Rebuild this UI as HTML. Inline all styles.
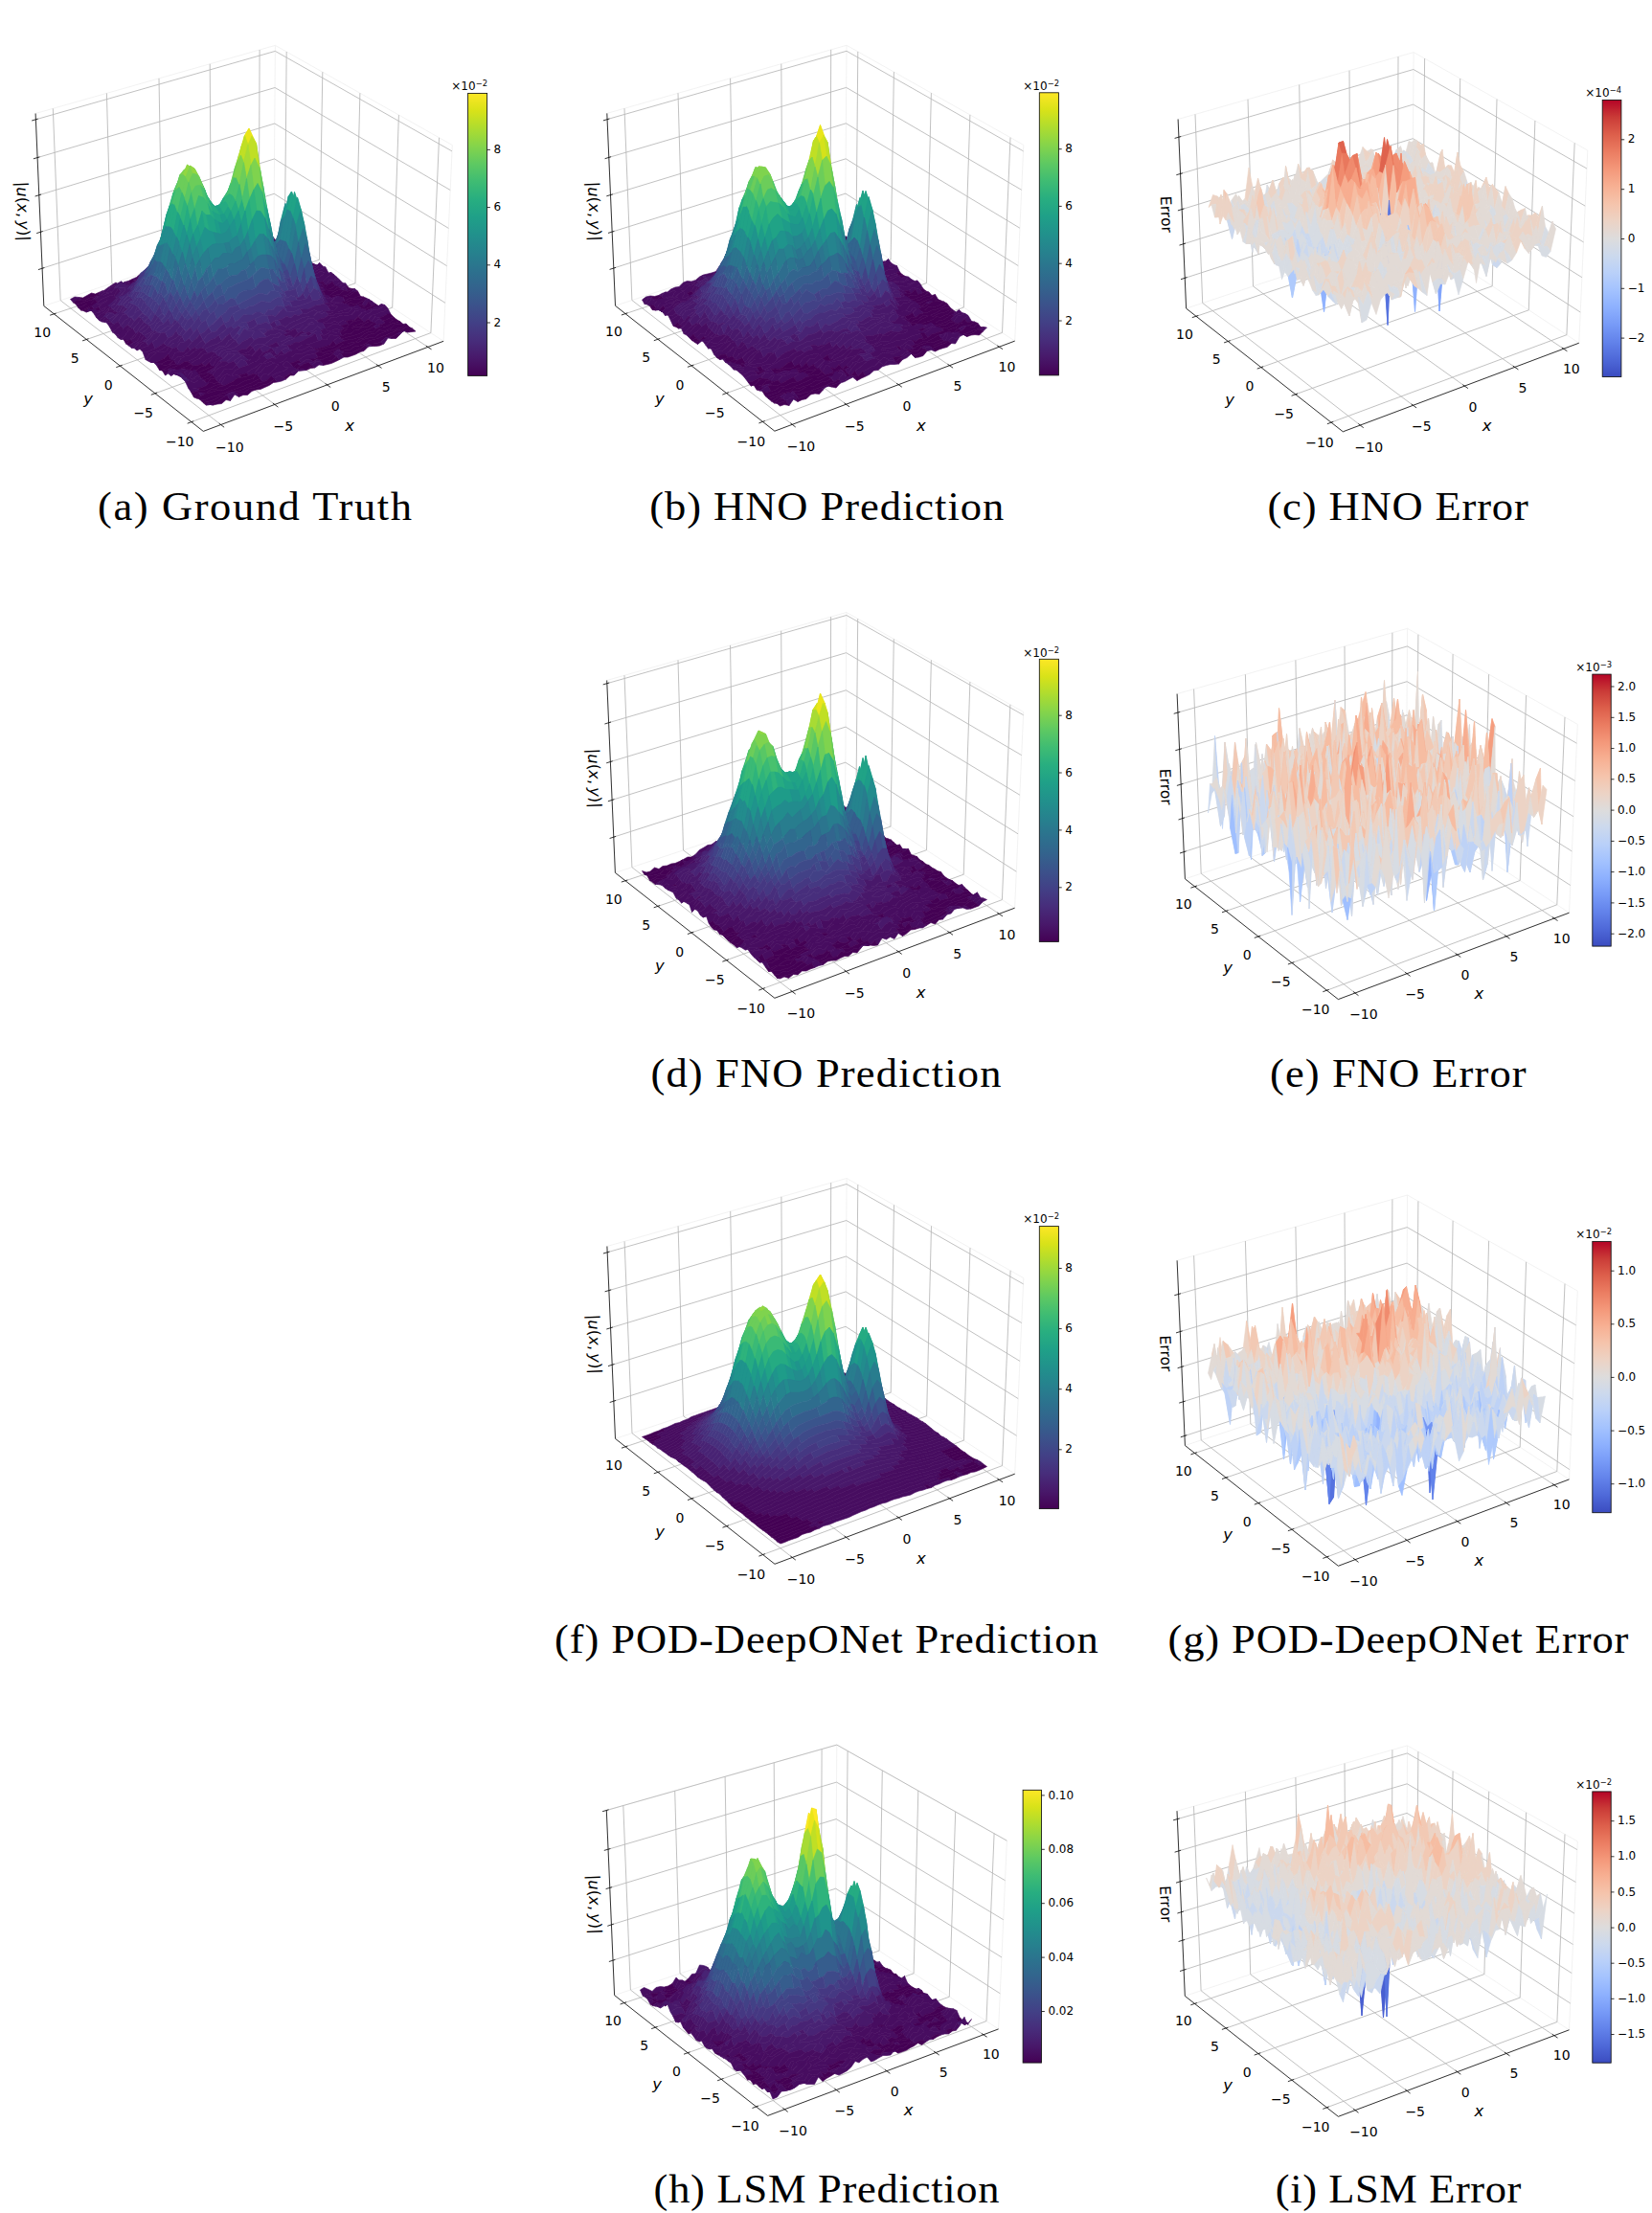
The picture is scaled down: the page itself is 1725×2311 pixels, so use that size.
<!DOCTYPE html><html><head><meta charset="utf-8"><title>Figure</title><style>.v0{fill:#440154;stroke:#440154}.v1{fill:#470d60;stroke:#470d60}.v10{fill:#32658e;stroke:#32658e}.v11{fill:#2e6d8e;stroke:#2e6d8e}.v12{fill:#2b758e;stroke:#2b758e}.v13{fill:#287d8e;stroke:#287d8e}.v14{fill:#25848e;stroke:#25848e}.v15{fill:#228c8d;stroke:#228c8d}.v16{fill:#1f948c;stroke:#1f948c}.v17{fill:#1e9c89;stroke:#1e9c89}.v18{fill:#20a386;stroke:#20a386}.v19{fill:#25ab82;stroke:#25ab82}.v2{fill:#48186a;stroke:#48186a}.v20{fill:#2eb37c;stroke:#2eb37c}.v21{fill:#3aba76;stroke:#3aba76}.v22{fill:#48c16e;stroke:#48c16e}.v23{fill:#58c765;stroke:#58c765}.v24{fill:#6ccd5a;stroke:#6ccd5a}.v25{fill:#7fd34e;stroke:#7fd34e}.v26{fill:#93d741;stroke:#93d741}.v27{fill:#a8db34;stroke:#a8db34}.v28{fill:#c0df25;stroke:#c0df25}.v29{fill:#d5e21a;stroke:#d5e21a}.v3{fill:#482374;stroke:#482374}.v30{fill:#eae51a;stroke:#eae51a}.v31{fill:#fde725;stroke:#fde725}.v4{fill:#472e7c;stroke:#472e7c}.v5{fill:#453882;stroke:#453882}.v6{fill:#424186;stroke:#424186}.v7{fill:#3e4a89;stroke:#3e4a89}.v8{fill:#3a548c;stroke:#3a548c}.v9{fill:#365d8d;stroke:#365d8d}.w1{fill:#485fd1;stroke:#485fd1}.w10{fill:#cbd8ee;stroke:#cbd8ee}.w11{fill:#d7dce3;stroke:#d7dce3}.w12{fill:#e2dad5;stroke:#e2dad5}.w13{fill:#ecd3c5;stroke:#ecd3c5}.w14{fill:#f2c9b4;stroke:#f2c9b4}.w15{fill:#f6bda2;stroke:#f6bda2}.w16{fill:#f7ad90;stroke:#f7ad90}.w17{fill:#f59d7e;stroke:#f59d7e}.w18{fill:#f08b6e;stroke:#f08b6e}.w19{fill:#e9785d;stroke:#e9785d}.w2{fill:#5572df;stroke:#5572df}.w20{fill:#df634e;stroke:#df634e}.w3{fill:#6384eb;stroke:#6384eb}.w4{fill:#7295f4;stroke:#7295f4}.w5{fill:#81a4fb;stroke:#81a4fb}.w6{fill:#90b2fe;stroke:#90b2fe}.w7{fill:#9fbfff;stroke:#9fbfff}.w8{fill:#afcafc;stroke:#afcafc}.w9{fill:#bed2f6;stroke:#bed2f6}html,body{margin:0;padding:0;background:#fff}svg{display:block}
text{font-family:"DejaVu Sans","Liberation Sans",sans-serif;fill:#000}
.tk text{text-anchor:middle}.al{font-style:italic;text-anchor:middle}
.zl{text-anchor:middle}.zl i,.zl tspan.i{font-style:italic}
.cap{font-family:"Liberation Serif","DejaVu Serif",serif;text-anchor:middle}</style></head><body><svg width="1725" height="2311" viewBox="0 0 1725 2311">
<g id="pa">
<path d="M45.8 319.5L286 240M286 240L463.1 356.3M37.1 118.5L287.4 47.4M287.4 47.4L472.3 151.5M286 240L287.4 47.4M463.1 356.3L472.3 151.5M212.3 450.4L45.8 319.5M212.3 450.4L463.1 356.3M45.8 319.5L37.1 118.5" stroke="#f0f0f0" stroke-width="0.9" fill="none"/>
<path d="M230.6 443.5L63.2 313.7M63.2 313.7L55.3 113.3M199.9 440.6L449.9 347.6M449.9 347.6L458.5 143.8M286.9 422.4L116.9 295.9M116.9 295.9L111.4 97.4M161.9 410.8L409.7 321.2M409.7 321.2L416.4 120.1M341.6 401.9L169.3 278.6M169.3 278.6L166 81.9M125.4 382.1L371 295.8M371 295.8L375.9 97.2M394.9 381.9L220.4 261.7M220.4 261.7L219.2 66.8M90.3 354.5L333.5 271.2M333.5 271.2L336.8 75.2M446.8 362.4L270.3 245.2M270.3 245.2L271.1 52M56.4 327.8L297.4 247.4M297.4 247.4L299.2 54M44.1 280.2L286.3 202.3M286.3 202.3L464.9 316.3M42.4 242.3L286.6 165.9M286.6 165.9L466.6 277.7M40.8 203.7L286.8 129M286.8 129L468.4 238.4M39.1 164.6L287.1 91.5M287.1 91.5L470.2 198.5M37.4 124.8L287.4 53.4M287.4 53.4L472 157.9" stroke="#b6b6b6" stroke-width="0.85" fill="none"/>
<g transform="scale(0.5)" stroke-width="1.3" stroke-linejoin="round"><path class="v0" d="M553 496l8 3 8-6-6-6-8 4-8 7zM505 516l8-3 8 0 8-4 8-2-6-6-8 4-8 3-8-3-8 7zM391 550l8 1 8-4 9 0 8-5 8-1 8-6 8 1 8-4 9-4 8-1 8-7-6-1-8 4-8-3-8 6-8 7-8-3-9 9-8 1-8-3-8 7-9 0-8 2zM273 593l9-7-6-3-8 4zM170 627l9 0 8-5 9-2 9-5 8-7 9 2-5-3-9 3-9 4-8-2-9 5-9 5-8-1z"/><path class="v1" d="M537 507l8-11 8 0-6 2-8 0-8 3zM481 520l8 1 8-7 8 2-6-4-8-4-8 4-8 7zM282 586l8-5 9-5 8-6 9 0 8-2 8 2 9-6 8-5 9 0 8-6 8-4 8 1 9 0-6-4-8 1-8-1-9 12-8 5-8-4-9 7-8 3-8 0-9 2-8-1-9 2-8 7-9 4zM222 610l8-9 9-4 9-2 8 1 9-7 8 4-5-6-9 2-8 8-9-7-8 5-9 6-8 6zM153 632l8-6 9 1-5-6-9-1-9 5z"/><path class="v0" d="M559 503l8 0 8-2-6-8-8 6-8-3zM486 525l9-4 8-2 8 0 8-3 8-2 8 0 8-4-6-3-8 2-8 4-8 0-8 3-8-2-8 7-8-1zM405 554l8 0 8-2 8-6 9 1 8-4 8-5 8-1 8-4-5-5-9 4-8 4-8-1-8 6-8 1-8 5-9 0-8 4zM158 635l9-1 8-3 9-3 9-2 8-7 9-2-5-2-9 5-9 2-8 5-9 0-9-1-8 6z"/><path class="v1" d="M543 510l8-6 8-1-6-7-8 0-8 11zM470 533l8-9 8 1-5-5-8 7-8 1zM388 545l8 6 9 3-6-3-8-1-9 0zM355 558l8 1 8-9-5 3-8 6-9 0zM321 565l8 5 9-6 8-9-5 9-9 6-8-2-8 2zM210 617l9-7 8 1 9-4 8-14 9-5 9 9 8-3 9-5 8-3 9-9 8-2 8-5-5 0-8 6-9 5-8 5-9 7-8-4-9 7-8-1-9 2-9 4-8 9-9-2-8 7z"/><path class="v2" d="M371 550l9-7 8 2-6 5-8-1-8 4zM346 555l9 3-6 1-8 5zM312 570l9-5-5 5-9 0z"/><path class="v0" d="M492 534l8-4 8-7 8-3 8-1 8 1 9-6 8-3 8-3 7 0 8-2 8-2-5-3-8 2-8 0-8 1-8 6-8 4-8 0-8 2-8 3-8 0-8 2-9 4zM418 555l9-6 8-1 8-3 8-5 9 4 8-3 8-6-6-2-8 4-8 1-8 5-8 4-9-1-8 6-8 2zM163 642l9-2 9-6 9 0 8-8-5 0-9 2-9 3-8 3-9 1z"/><path class="v1" d="M476 535l8-3 8 2-6-9-8-1-8 9zM394 552l8-6 8 6 8 3-5-1-8 0-9-3-8-6zM258 592l9 5 9-6 8-2-5 0-9 5-8 3-9-9zM198 626l9-8 8 0 9-5 9-2 8-9-5 5-9 4-8-1-9 7-9 2-8 7z"/><path class="v2" d="M284 589l8-11 9-3 8-7 9-3 8-4 9-2 8-1 9-5 8 7 8-5 9-2 8-7 9 6-6-7-8-2-9 7-8 9-8-1-9-3-8 9-9 6-8-5-9 5-8 5-8 2-9 9-8 3zM241 602l9-8 8-2-5-4-9 5-8 14z"/><path class="v1" d="M570 513l8-12 8 2-6 1-8 2-8 2zM514 525l8 0-6-5-8 3zM473 541l9-7 8 5-6-7-8 3-8 6zM407 551l9-1 8 3 8-7 9 1 8 0 8-4 8 2-5-1-9-4-8 5-8 3-8 1-9 6-8-3-8-6zM272 596l9-1-5-4-9 6zM204 631l8-6 9-4 9-4 8 1 9-16-6 0-8 9-9 2-9 5-8 0-9 8z"/><path class="v0" d="M522 525l8 2 8-3 8-8 8 1 8-1 8-3-6-5-7 0-8 3-8 3-9 6-8-1-8 1zM490 539l8-2 8-6 8-6-6-2-8 7-8 4-8-2zM465 545l8-4-5 0-8 3zM169 648l9-3 8-4 9-3 9-7-6-5-8 8-9 0-9 6-9 2z"/><path class="v2" d="M366 553l8-2 8 1 9-4 8 2 8 1-5-5-8 6-9-6-8 7-9 2-8 5zM281 595l8-8 9-9 8 0-5-3-9 3-8 11-8 2zM247 602l8-1 9 0 8-5-5 1-9-5-8 2-9 8z"/><path class="v3" d="M306 578l9-12 8-5 9-3 8-4 9-2 8-1 9 2-6 7-8-7-9 5-8 1-9 2-8 4-9 3-8 7z"/><path class="v1" d="M576 510l8 1 8 0-6-8-8-2-8 12zM446 546l8 6 9-4 8 2 8-8 8-6 8 0 8-4 9-5 8 1 8 2-6-5-8 0-8 6-8 6-8 2-8-5-9 7-8 4-8-2-8 4-8 0zM421 549l9 2-6 2-8-3zM192 640l8-6 9 1 9-5 8-4 9-5 9-3 8-10-5-6-9 16-8-1-9 4-9 4-8 6-9 7-9 3z"/><path class="v0" d="M528 530l8 0 8-5 8 0 8-6 8-3 8-6-6 3-8 3-8 1-8-1-8 8-8 3-8-2zM174 649l9-4 9-5-6 1-8 4-9 3z"/><path class="v2" d="M430 551l8-8 8 3-5 1-9-1-8 7zM396 549l9 0 8-3 8 3-5 1-9 1-8-1-8-2zM252 608l9-5 8-7 9 0 8-6 9-11-6 8-8 8-9 1-8 5-9 0-8 1z"/><path class="v3" d="M354 547l9 9 8 0 8-9 9-3 8 5-5-1-9 4-8-1-8 2-9-2-8 1zM295 579l8-7 9 3 8-10 9-7 8 2-5-2-9 3-8 5-9 12-8 0-9 9z"/><path class="v4" d="M337 560l9-9 8-4-5 5-9 2-8 4z"/><path class="v0" d="M590 515l8-2-6-2-8 0zM550 528l8 1 8-2 8-5-6-6-8 3-8 6-8 0zM533 534l9-7-6 3-8 0zM468 556l9-4-6-2-8-2zM180 652l8-3 9-3-5-6-9 5-9 4z"/><path class="v1" d="M574 522l8-8 8 1-6-4-8-1-8 6zM542 527l8 1-6-3-8 5zM477 552l8-4 8-4 8-7 8 0 8-6 8 1 8 2-5-4-8-2-8-1-9 5-8 4-8 0-8 6-8 8zM452 544l8 7 8 5-5-8-9 4-8-6zM197 646l9-5 8-7 9-5 9-8 8-1 9-8-5 6-9 3-9 5-8 4-9 5-9-1-8 6z"/><path class="v2" d="M419 548l8 1 8 4 9-7 8-2-6 2-8-3-8 8-9-2-8-3zM249 612l8-8 9 1 9-12 8-2-5 5-9 0-8 7-9 5-8 10z"/><path class="v3" d="M377 550l8 2 8-10 9 0 8 3 9 3-6-2-8 3-9 0-8-5-9 3-8 9zM283 591l9-6 8-17-5 11-9 11-8 6z"/><path class="v4" d="M334 546l9 6 8-6 9-3 8 0 9 7-6 6-8 0-9-9-8 4-9 9-8-2zM300 568l8-8 9-2 9-4-6 11-8 10-9-3-8 7z"/><path class="v5" d="M326 554l8-8-5 12-9 7z"/><path class="v0" d="M555 530l8 3 8-9 8 4 8-4 8-4 8-3-5-4-8 2-8-1-8 8-8 5-8 2-8-1zM482 557l8-6-5-3-8 4zM203 650l8-3-5-6-9 5z"/><path class="v1" d="M490 551l9-1 8-4 8-2 8-1 8-13 8-2 8 2 8 0-5-2-8-1-9 7-8-2-8-1-8 6-8 0-8 7-8 4zM466 549l8 1 8 7-5-5-9 4-8-5zM211 647l9-5 9-5 8-8 9-8-6-1-8 1-9 8-9 5-8 7zM185 645l9 5 9 0-6-4-9 3-8 3z"/><path class="v2" d="M433 544l8 6 8-1 8 0 9 0-6 2-8-7-8 2-9 7-8-4zM246 621l8-6 9-10 9-1-6 1-9-1-8 8-9 8z"/><path class="v3" d="M407 542l9 5 8-5 9 2-6 5-8-1-9-3-8-3zM272 604l8-10 8-10-5 7-8 2-9 12z"/><path class="v4" d="M390 537l9-2 8 7-5 0-9 0-8 10zM288 584l9-11 8-10-5 5-8 17-9 6z"/><path class="v5" d="M348 539l9 1 8-2 9 2 8-7 8 4-5 15-8-2-9-7-8 0-9 3-8 6zM305 563l9-10 8-3-5 8-9 2-8 8z"/><path class="v6" d="M322 550l9-10 8-3 9 2-5 13-9-6-8 8-9 4z"/><path class="v0" d="M561 536l8-6 8 4 8-3 8-2 8-4 8-5-6-3-8 3-8 4-8 4-8-4-8 9-8-3z"/><path class="v1" d="M480 551l8 3 8 2 8-6 8-5 9 2 8-3 8-7 8 3 8 1 8-5-6-6-8 0-8-2-8 2-8 13-8 1-8 2-8 4-9 1-8 6-8-7zM190 648l9-1 9 4 9-3 8-10 9-6-5 5-9 5-9 5-8 3-9 0-9-5z"/><path class="v2" d="M455 545l8 1 8 3 9 2-6-1-8-1-9 0-8 0zM234 632l9-8 8-4 9-3 8-6 9-5-5-2-9 1-9 10-8 6-9 8-8 8z"/><path class="v3" d="M438 538l9 5 8 2-6 4-8 1-8-6zM277 606l8-17-5 5-8 10z"/><path class="v4" d="M413 534l8 6 9-2 8 0-5 6-9-2-8 5-9-5zM285 589l9-18-6 13-8 10z"/><path class="v5" d="M396 527l9 5 8 2-6 8-8-7-9 2zM294 571l8-7 9-8-6 7-8 10-9 11z"/><path class="v6" d="M362 529l8-1 9 2 9 0 8-3-6 10-8-4-8 7-9-2-8 2zM311 556l8-7 9-9-6 10-8 3-9 10z"/><path class="v7" d="M328 540l8-9 9-1 8-3 9 2-5 11-9-1-9-2-8 3-9 10z"/><path class="v0" d="M583 534l8-5 8-3 8 2 8-2-6-6-8 5-8 4-8 2-8 3zM559 541l8-1-6-4-8 5z"/><path class="v1" d="M567 540l8-9 8 3-6 0-8-4-8 6zM485 556l9-1 8 0 8 1 8-10 8-6 9 5 8-6 8 3 8-1-6 0-8-1-8-3-8 7-8 3-9-2-8 5-8 6-8-2-8-3zM196 655l9-2 9 2 8-7 9-7-6-3-8 10-9 3-9-4-9 1z"/><path class="v2" d="M469 550l8 0 8 6-5-5-9-2-8-3zM231 641l8-7 9-14 9-2 8-4-5 3-9 3-8 4-9 8-9 6z"/><path class="v3" d="M452 543l9 5 8 2-6-4-8-1-8-2zM265 614l9-9 8-5-5 6-9 5-8 6z"/><path class="v4" d="M444 536l8 7-5 0-9-5zM282 600l9-16-6 5-8 17z"/><path class="v5" d="M419 523l8 11 8-3 9 5-6 2-8 0-9 2-8-6zM291 584l8-16-5 3-9 18z"/><path class="v6" d="M402 521l8 3 9-1-6 11-8-2-9-5zM299 568l9-6 8-16-5 10-9 8-8 7z"/><path class="v7" d="M367 518l9 1 9-1 8 3 9 0-6 6-8 3-9 0-9-2-8 1zM316 546l9-13-6 16-8 7z"/><path class="v8" d="M325 533l8-4 9-13 8 5 9-2 8-1-5 11-9-2-8 3-9 1-8 9-9 9z"/><path class="v1" d="M573 544l8-2 8-5 8-6 8-2 8-1 8-7-6 5-8 2-8-2-8 3-8 5-8-3-8 9zM508 552l8 1 8 0 8-9 8 4 8-10 9 2 8 8-6-7-8 1-8-3-8 6-9-5-8 6-8 10-8-1zM201 663l9-7 9 0 9-9 8 0-5-6-9 7-8 7-9-2-9 2z"/><path class="v0" d="M565 548l8-4-6-4-8 1z"/><path class="v2" d="M483 551l8 3 8-2 9 0-6 3-8 0-9 1-8-6zM236 647l9-11 8-11-5-5-9 14-8 7z"/><path class="v3" d="M466 540l9 7 8 4-6-1-8 0-8-2zM253 625l9-10 9 1 8-14-5 3-9 9-8 4-9 2z"/><path class="v4" d="M458 531l8 9-5 8-9-5zM279 602l9-9-6 7-8 5z"/><path class="v5" d="M449 525l9 6-6 12-8-7zM288 593l8-12 9-11-6-2-8 16-9 16z"/><path class="v6" d="M424 522l9-1 8 2 8 2-5 11-9-5-8 3-8-11zM305 570l8-14-5 6-9 6z"/><path class="v7" d="M407 516l9 5 8 1-5 1-9 1-8-3zM313 556l9-18-6 8-8 16z"/><path class="v8" d="M390 507l9 2 8 7-5 5-9 0-8-3zM322 538l8-16-5 11-9 13z"/><path class="v9" d="M356 504l8 0 9 7 9-4 8 0-5 11-9 1-9-1-8 1-9 2zM330 522l8-15-5 22-8 4z"/><path class="v10" d="M338 507l9-3 9 0-6 17-8-5-9 13z"/><path class="v1" d="M522 553l8 0 8-2 8-5 8-4 8 1 8 0 9 2 8-8 8 3 8-1 8-9 8-5 8 0-6-4-8 7-8 1-8 2-8 6-8 5-8 2-8 4-8-8-9-2-8 10-8-4-8 9-8 0zM207 669l9-7 8-8 9-1 9-3-6-3-8 0-9 9-9 0-9 7z"/><path class="v2" d="M489 555l8-3 8 5 8-5 9 1-6 0-8-1-9 0-8 2-8-3zM242 650l8-12-5-2-9 11z"/><path class="v3" d="M480 548l9 7-6-4-8-4zM250 638l9-12 9-9 8-5-5 4-9-1-9 10-8 11z"/><path class="v4" d="M472 542l8 6-5-1-9-7zM276 612l9-14-6 4-8 14z"/><path class="v5" d="M464 532l8 10-6-2-8-9zM285 598l8-14-5 9-9 9z"/><path class="v6" d="M447 523l8 3 9 6-6-1-9-6-8-2zM293 584l9-10-6 7-8 12z"/><path class="v7" d="M430 513l8-2 9 12-6 0-8-2-9 1zM302 574l8-16-5 12-9 11z"/><path class="v8" d="M413 507l8 3 9 3-6 9-8-1-9-5zM310 558l9-15-6 13-8 14z"/><path class="v9" d="M396 498l8 0 9 9-6 9-8-7-9-2zM319 543l8-18-5 13-9 18z"/><path class="v10" d="M378 494l9-1 9 5-6 9-8 0-9 4zM327 525l8-13-5 10-8 16z"/><path class="v11" d="M335 512l9-20 8-5 9-3 9 3 8 7-5 17-9-7-8 0-9 0-9 3-8 15z"/><path class="v1" d="M608 545l9-4 8-5 8 1-6-12-8 0-8 5-8 9zM576 537l8 2 9-2 7 6-5-3-8-3-8 8-9-2zM239 657l9-3-6-4-9 3zM212 672l9-10-5 0-9 7z"/><path class="v0" d="M600 543l8 2-5-6-8 1z"/><path class="v2" d="M511 550l8-4 8 1 9 6 8-3 8-5 8-2 8 2 8-8-6 6-8 0-8-1-8 4-8 5-8 2-8 0-9-1-8 5zM248 654l8-17-6 1-8 12zM221 662l9-8 9 3-6-4-9 1-8 8z"/><path class="v3" d="M494 547l9 1 8 2-6 7-8-5-8 3zM256 637l9-9 8-7-5-4-9 9-9 12z"/><path class="v4" d="M486 541l8 6-5 8-9-7zM273 621l9-13-6 4-8 5z"/><path class="v5" d="M469 528l9 4 8 9-6 7-8-6-8-10zM282 608l8-12-5 2-9 14z"/><path class="v6" d="M461 520l8 8-5 4-9-6zM290 596l9-16 8-11-5 5-9 10-8 14z"/><path class="v7" d="M453 512l8 8-6 6-8-3z"/><path class="v8" d="M436 508l8 0 9 4-6 11-9-12-8 2zM307 569l8-23-5 12-8 16z"/><path class="v9" d="M419 504l8 1 9 3-6 5-9-3-8-3zM315 546l9-17-5 14-9 15z"/><path class="v10" d="M410 496l9 8-6 3-9-9zM324 529l8-20-5 16-8 18z"/><path class="v11" d="M393 481l8 7 9 8-6 2-8 0-9-5z"/><path class="v12" d="M384 474l9 7-6 12-9 1zM332 509l9-22-6 25-8 13z"/><path class="v13" d="M366 459l9 11 9 4-6 20-8-7-9-3zM341 487l8-12 9-8-6 20-8 5-9 20z"/><path class="v14" d="M358 467l8-8-5 25-9 3z"/><path class="v0" d="M614 549l8-6 8 1 8-2-5-5-8-1-8 5-9 4z"/><path class="v1" d="M590 543l8-2 8 4 8 4-6-4-8-2-7-6-9 2zM218 673l9-6-6-5-9 10z"/><path class="v2" d="M533 550l8 1 9-8 8 6 8 0 8 0 8-8 8 2-6-4-8-2-8 8-8-2-8 2-8 5-8 3-9-6zM227 667l8-5 9-6 9-3 9-11-6-5-8 17-9 3-9-3-9 8z"/><path class="v3" d="M517 544l8 7 8-1-6-3-8-1-8 4zM262 642l8-11 9-4-6-6-8 7-9 9z"/><path class="v4" d="M500 538l9 0 8 6-6 6-8-2-9-1zM279 627l8-17-5-2-9 13z"/><path class="v5" d="M492 532l8 6-6 9-8-6zM287 610l9-10-6-4-8 12z"/><path class="v6" d="M475 516l9 9 8 7-6 9-8-9-9-4zM296 600l8-16-5-4-9 16z"/><path class="v7" d="M467 510l8 6-6 12-8-8zM304 584l9-24-6 9-8 11z"/><path class="v8" d="M458 503l9 7-6 10-8-8z"/><path class="v9" d="M441 496l9 5 8 2-5 9-9-4-8 0zM313 560l8-23-6 9-8 23z"/><path class="v10" d="M424 488l9 5 8 3-5 12-9-3-8-1z"/><path class="v11" d="M415 476l9 12-5 16-9-8zM321 537l8-25-5 17-9 17z"/><path class="v12" d="M407 475l8 1-5 20-9-8zM329 512l9-18-6 15-8 20z"/><path class="v13" d="M398 465l9 10-6 13-8-7z"/><path class="v14" d="M389 454l9 11-5 16-9-7zM338 494l8-26-5 19-9 22z"/><path class="v15" d="M381 439l8 15-5 20-9-4zM346 468l8-18-5 25-8 12z"/><path class="v16" d="M354 450l9-11 9-6 9 6-6 31-9-11-8 8-9 8z"/><path class="v0" d="M620 553l8-2 8-6 8-4-6 1-8 2-8-1-8 6z"/><path class="v1" d="M596 547l8 1 8-1 8 6-6-4-8-4-8-4-8 2zM223 674l9-2-5-5-9 6z"/><path class="v2" d="M539 557l8-4 8 0 9 5 8-7 8 2 8-2 8-4-6-4-8-2-8 8-8 0-8 0-8-6-9 8-8-1zM232 672l9-10 9-9 8 0 9-8-5-3-9 11-9 3-9 6-8 5z"/><path class="v3" d="M523 545l8 8 8 4-6-7-8 1-8-7zM267 645l9-11-6-3-8 11z"/><path class="v4" d="M514 540l9 5-6-1-8-6zM276 634l8-12 9-13-6 1-8 17-9 4z"/><path class="v5" d="M506 532l8 8-5-2-9 0zM293 609l8-16-5 7-9 10z"/><path class="v6" d="M498 526l8 6-6 6-8-6z"/><path class="v7" d="M481 514l8 3 9 9-6 6-8-7-9-9zM301 593l9-16-6 7-8 16z"/><path class="v8" d="M473 508l8 6-6 2-8-6zM310 577l8-25-5 8-9 24z"/><path class="v9" d="M464 495l9 13-6 2-9-7z"/><path class="v10" d="M456 486l8 9-6 8-8-2zM318 552l8-25-5 10-8 23z"/><path class="v11" d="M438 480l9-1 9 7-6 15-9-5-8-3z"/><path class="v12" d="M430 472l8 8-5 13-9-5zM326 527l9-25-6 10-8 25z"/><path class="v13" d="M421 463l9 9-6 16-9-12z"/><path class="v14" d="M412 456l9 7-6 13-8-1zM335 502l8-32-5 24-9 18z"/><path class="v15" d="M404 439l8 17-5 19-9-10z"/><path class="v16" d="M395 423l9 16-6 26-9-11zM343 470l8-24-5 22-8 26z"/><path class="v17" d="M386 417l9 6-6 31-8-15zM351 446l9-21-6 25-8 18z"/><path class="v18" d="M360 425l8-12 9-4 9 8-5 22-9-6-9 6-9 11z"/><path class="v0" d="M626 554l8-2 8-3 8-1-6-7-8 4-8 6-8 2z"/><path class="v1" d="M586 558l8 0 8-2 8-3 8-2 8 3-6-1-8-6-8 1-8-1-8 4-8 2zM229 683l9-6-6-5-9 2z"/><path class="v2" d="M561 559l8 4 9-2 8-3-6-5-8-2-8 7-9-5zM238 677l9-6 8-13 9-2-6-3-8 0-9 9-9 10z"/><path class="v3" d="M537 552l8 4 8-5 8 8-6-6-8 0-8 4-8-4zM264 656l9-9 8-11-5-2-9 11-9 8z"/><path class="v4" d="M528 546l9 6-6 1-8-8zM281 636l9-15-6 1-8 12z"/><path class="v5" d="M520 533l8 13-5-1-9-5zM290 621l8-12-5 0-9 13z"/><path class="v6" d="M512 523l8 10-6 7-8-8zM298 609l9-13-6-3-8 16z"/><path class="v7" d="M504 517l8 6-6 9-8-6zM307 596l8-23-5 4-9 16z"/><path class="v8" d="M487 503l8 7 9 7-6 9-9-9-8-3z"/><path class="v9" d="M478 491l9 12-6 11-8-6zM315 573l8-31-5 10-8 25z"/><path class="v10" d="M470 482l8 9-5 17-9-13z"/><path class="v11" d="M461 476l9 6-6 13-8-9zM323 542l9-30-6 15-8 25z"/><path class="v12" d="M453 471l8 5-5 10-9-7z"/><path class="v13" d="M436 467l8 0 9 4-6 8-9 1-8-8z"/><path class="v14" d="M427 451l9 16-6 5-9-9zM332 512l8-30-5 20-9 25z"/><path class="v15" d="M418 439l9 12-6 12-9-7z"/><path class="v16" d="M409 431l9 8-6 17-8-17zM340 482l8-34-5 22-8 32z"/><path class="v18" d="M400 408l9 23-5 8-9-16zM348 448l9-22-6 20-8 24z"/><path class="v20" d="M383 388l9 6 8 14-5 15-9-6-9-8zM357 426l8-31-5 30-9 21z"/><path class="v21" d="M365 395l9-10 9 3-6 21-9 4-8 12z"/><path class="v0" d="M648 554l8-2-6-4-8 1z"/><path class="v1" d="M584 563l8-4 8 5 8 0 8-9 8-5 8 3 8-2 8 3-6-5-8 3-8 2-8-3-8 2-8 3-8 2-8 0-8 3zM235 694l9-8 8-6-5-9-9 6-9 6z"/><path class="v2" d="M567 554l8 7 9 2-6-2-9 2-8-4zM252 680l9-11 9-6-6-7-9 2-8 13z"/><path class="v3" d="M543 554l8 0 8-2 8 2-6 5-8-8-8 5-8-4zM270 663l9-5 8-18-6-4-8 11-9 9z"/><path class="v4" d="M534 546l9 8-6-2-9-6zM287 640l8-18-5-1-9 15z"/><path class="v5" d="M526 538l8 8-6 0-8-13zM295 622l9-8-6-5-8 12z"/><path class="v6" d="M518 525l8 13-6-5-8-10zM304 614l9-18-6 0-9 13z"/><path class="v7" d="M509 513l9 12-6-2-8-6zM313 596l8-20-6-3-8 23z"/><path class="v9" d="M501 493l8 20-5 4-9-7zM321 576l8-29-6-5-8 31z"/><path class="v10" d="M493 483l8 10-6 17-8-7z"/><path class="v12" d="M484 466l9 17-6 20-9-12zM329 547l8-36-5 1-9 30z"/><path class="v13" d="M467 455l9 4 8 7-6 25-8-9-9-6z"/><path class="v14" d="M441 456l9 7 9-9 8 1-6 21-8-5-9-4-8 0z"/><path class="v15" d="M433 443l8 13-5 11-9-16zM337 511l9-40-6 11-8 30z"/><path class="v16" d="M424 438l9 5-6 8-9-12z"/><path class="v17" d="M415 423l9 15-6 1-9-8z"/><path class="v19" d="M406 401l9 22-6 8-9-23z"/><path class="v21" d="M397 376l9 25-6 7-8-14z"/><path class="v23" d="M371 381l8-13 9-8 9 16-5 18-9-6-9-3-9 10z"/><path class="v22" d="M362 403l9-22-6 14-8 31z"/><path class="v20" d="M354 430l8-27-5 23-9 22z"/><path class="v18" d="M346 471l8-41-6 18-8 34z"/><path class="v1" d="M598 562l8 7 8-7 8-5 8 1 8-5 8-1 8-1 8 3-6-2-8 2-8-3-8 2-8-3-8 5-8 9-8 0-8-5zM241 698l9 1 8-13-6-6-8 6-9 8z"/><path class="v2" d="M581 565l8 3 9-6-6-3-8 4-9-2zM258 686l9-8 8-14-5-1-9 6-9 11z"/><path class="v3" d="M565 549l8 2 8 14-6-4-8-7-8-2zM275 664l9-13 9-5-6-6-8 18-9 5z"/><path class="v4" d="M549 553l8-4 8 0-6 3-8 2-8 0zM293 646l8-18-6-6-8 18z"/><path class="v5" d="M540 540l9 13-6 1-9-8zM301 628l9-10-6-4-9 8z"/><path class="v6" d="M532 529l8 11-6 6-8-8zM310 618l8-25-5 3-9 18z"/><path class="v7" d="M524 513l8 16-6 9-8-13z"/><path class="v9" d="M515 497l9 16-6 12-9-12z"/><path class="v11" d="M507 474l8 23-6 16-8-20z"/><path class="v12" d="M498 459l9 15-6 19-8-10zM335 547l8-39-6 3-8 36z"/><path class="v14" d="M490 438l8 21-5 24-9-17z"/><path class="v15" d="M481 427l9 11-6 28-8-7zM447 446l9 8 8-20-5 20-9 9-9-7zM343 508l8-35-5-2-9 40z"/><path class="v16" d="M464 434l9-4 8-3-5 32-9-4-8-1zM438 435l9 11-6 10-8-13z"/><path class="v17" d="M430 432l8 3-5 8-9-5z"/><path class="v18" d="M421 412l9 20-6 6-9-15z"/><path class="v20" d="M412 392l9 20-6 11-9-22z"/><path class="v22" d="M403 368l9 24-6 9-9-25z"/><path class="v24" d="M376 365l9-11 9-3 9 17-6 8-9-16-9 8-8 13z"/><path class="v23" d="M368 396l8-31-5 16-9 22z"/><path class="v21" d="M360 425l8-29-6 7-8 27z"/><path class="v19" d="M351 473l9-48-6 5-8 41z"/><path class="v10" d="M327 578l8-31-6 0-8 29z"/><path class="v8" d="M318 593l9-15-6-2-8 20z"/><path class="v1" d="M604 565l8 4 8-9 8 4 8 2 8-12 8 5 8-3 8-7-6 5-8-3-8 1-8 1-8 5-8-1-8 5-8 7-8-7zM246 705l9-15 9 0 8-7-5-5-9 8-8 13-9-1z"/><path class="v2" d="M587 560l8 12 9-7-6-3-9 6-8-3zM272 683l9-13-6-6-8 14z"/><path class="v3" d="M579 546l8 14-6 5-8-14zM281 670l9-9 8-8-5-7-9 5-9 13z"/><path class="v5" d="M555 538l8-1 8 0 8 9-6 5-8-2-8 0-8 4zM307 639l9-18-6-3-9 10z"/><path class="v6" d="M546 530l9 8-6 15-9-13z"/><path class="v7" d="M538 517l8 13-6 10-8-11zM316 621l8-20-6-8-8 25z"/><path class="v9" d="M530 501l8 16-6 12-8-16z"/><path class="v11" d="M521 471l9 30-6 12-9-16z"/><path class="v13" d="M513 440l8 31-6 26-8-23zM341 552l8-46-6 2-8 39z"/><path class="v16" d="M504 414l9 26-6 34-9-15zM453 439l9-8-6 23-9-8z"/><path class="v17" d="M496 404l8 10-6 45-8-21zM462 431l8-16-6 19-8 20zM444 431l9 8-6 7-9-11z"/><path class="v18" d="M470 415l9-8 8-5 9 2-6 34-9-11-8 3-9 4zM436 425l8 6-6 4-8-3z"/><path class="v19" d="M427 407l9 18-6 7-9-20zM357 475l8-48-5-2-9 48z"/><path class="v21" d="M418 391l9 16-6 5-9-20z"/><path class="v23" d="M409 368l9 23-6 1-9-24z"/><path class="v25" d="M382 365l9-21 9 7 9 17-6 0-9-17-9 3-9 11z"/><path class="v24" d="M374 391l8-26-6 0-8 31z"/><path class="v22" d="M365 427l9-36-6 5-8 29z"/><path class="v15" d="M349 506l8-31-6-2-8 35z"/><path class="v10" d="M332 583l9-31-6-5-8 31z"/><path class="v8" d="M324 601l8-18-5-5-9 15z"/><path class="v4" d="M298 653l9-14-6-11-8 18z"/><path class="v1" d="M634 567l8 1 8-10 8 3 8-5 8 0-6-7-8 7-8 3-8-5-8 12-8-2zM609 576l9-4-6-3-8-4zM252 709l9-8 8-12 9-2-6-4-8 7-9 0-9 15z"/><path class="v2" d="M618 572l8-8 8 3-6-3-8-4-8 9zM601 571l8 5-5-11-9 7zM278 687l9-10 8-12-5-4-9 9-9 13z"/><path class="v3" d="M593 555l8 16-6 1-8-12zM295 665l9-6-6-6-8 8z"/><path class="v5" d="M585 530l8 25-6 5-8-14zM313 642l8-15-5-6-9 18z"/><path class="v6" d="M577 518l8 12-6 16-8-9zM552 538l8 0 9-14-6 13-8 1-9-8zM321 627l9-13-6-13-8 20z"/><path class="v7" d="M569 524l8-6-6 19-8 0z"/><path class="v8" d="M544 516l8 22-6-8-8-13zM330 614l8-27-6-4-8 18z"/><path class="v10" d="M536 484l8 32-6 1-8-16zM338 587l9-26-6-9-9 31z"/><path class="v13" d="M527 445l9 39-6 17-9-30zM347 561l8-45-6-10-8 46z"/><path class="v16" d="M519 409l8 36-6 26-8-31z"/><path class="v19" d="M510 375l9 34-6 31-9-26zM467 413l9-14-6 16-8 16zM433 411l9 15-6-1-9-18zM363 484l8-41-6-16-8 48z"/><path class="v21" d="M485 382l8-16 9-1 8 10-6 39-8-10-9-2-8 5zM424 388l9 23-6-4-9-16z"/><path class="v20" d="M476 399l9-17-6 25-9 8z"/><path class="v18" d="M442 426l8 6 9-5 8-14-5 18-9 8-9-8-8-6z"/><path class="v23" d="M415 368l9 20-6 3-9-23z"/><path class="v25" d="M406 352l9 16-6 0-9-17z"/><path class="v26" d="M388 370l9-24 9 6-6-1-9-7-9 21z"/><path class="v24" d="M380 402l8-32-6-5-8 26z"/><path class="v22" d="M371 443l9-41-6-11-9 36z"/><path class="v15" d="M355 516l8-32-6-9-8 31z"/><path class="v4" d="M304 659l9-17-6-3-9 14z"/><path class="v1" d="M624 574l8 3 8-4 8-5 8 1 8-5 8-3 8-3-6-2-8 0-8 5-8-3-8 10-8-1-8-3-8 8zM258 709l9 3 8-6 9-10-6-9-9 2-8 12-9 8z"/><path class="v2" d="M607 565l8 8 9 1-6-2-9 4-8-5zM284 696l9-15 8-9-6-7-8 12-9 10z"/><path class="v4" d="M599 547l8 18-6 6-8-16zM310 663l9-13-6-8-9 17z"/><path class="v6" d="M591 513l8 34-6 8-8-25zM327 631l9-19-6 2-9 13z"/><path class="v9" d="M575 505l8-14 8 22-6 17-8-12-8 6zM550 501l8 26-6 11-8-22zM344 592l9-22-6-9-9 26z"/><path class="v8" d="M566 531l9-26-6 19-9 14z"/><path class="v7" d="M558 527l8 4-6 7-8 0zM336 612l8-20-6-5-8 27z"/><path class="v12" d="M542 466l8 35-6 15-8-32zM353 570l8-40-6-14-8 45z"/><path class="v15" d="M533 418l9 48-6 18-9-39zM361 530l8-35-6-11-8 32z"/><path class="v19" d="M525 370l8 48-6 27-8-36zM465 424l8-15-6 4-8 14zM439 420l9 11-6-5-9-15z"/><path class="v23" d="M517 336l8 34-6 39-9-34zM482 383l9-33-6 32-9 17zM421 383l9 22-6-17-9-20z"/><path class="v24" d="M508 319l9 17-7 39-8-10zM491 350l8-26-6 42-8 16zM386 415l8-34-6-11-8 32z"/><path class="v25" d="M499 324l9-5-6 46-9 1zM412 365l9 18-6-15-9-16zM394 381l9-19-6-16-9 24z"/><path class="v21" d="M473 409l9-26-6 16-9 14zM430 405l9 15-6-9-9-23zM377 454l9-39-6-13-9 41z"/><path class="v18" d="M448 431l8-2 9-5-6 3-9 5-8-6zM369 495l8-41-6-11-8 41z"/><path class="v26" d="M403 362l9 3-6-13-9-6z"/><path class="v5" d="M319 650l8-19-6-4-8 15z"/><path class="v3" d="M301 672l9-9-6-4-9 6z"/><path class="v1" d="M630 576l8 1 8-1 8-1 8-4 8-5 8 4 8 0-6-12-8 3-8 3-8 5-8-1-8 5-8 4-8-3zM272 710l9-5 9-13-6 4-9 10-8 6z"/><path class="v2" d="M621 578l9-2-6-2-9-1zM290 692l8-7 9-8-6-5-8 9-9 15z"/><path class="v3" d="M613 562l8 16-6-5-8-8zM307 677l9-6-6-8-9 9z"/><path class="v5" d="M606 526l7 36-6 3-8-18zM324 656l9-17-6-8-8 19z"/><path class="v9" d="M598 486l8 40-7 21-8-34zM573 519l8-29-6 15-9 26zM556 500l8 26-6 1-8-26zM350 613l9-30-6-13-9 22z"/><path class="v11" d="M581 490l9-28 8 24-7 27-8-22-8 14z"/><path class="v8" d="M564 526l9-7-7 12-8-4z"/><path class="v13" d="M548 456l8 44-6 1-8-35z"/><path class="v17" d="M540 403l8 53-6 10-9-48zM375 509l9-39-7-16-8 41z"/><path class="v22" d="M531 349l9 54-7 15-8-48zM479 405l9-35-6 13-9 26zM427 395l9 26-6-16-9-22z"/><path class="v26" d="M523 299l8 50-6 21-8-34z"/><path class="v28" d="M505 303l9-19 9 15-6 37-9-17-9 5z"/><path class="v27" d="M497 335l8-32-6 21-8 26z"/><path class="v24" d="M488 370l9-35-6 15-9 33zM400 402l9-14 9-1 9 8-6-12-9-18-9-3-9 19z"/><path class="v20" d="M471 421l8-16-6 4-8 15zM436 421l9 7-6-8-9-15zM384 470l8-41-6-14-9 39z"/><path class="v19" d="M462 437l9-16-6 3-9 5zM445 428l9 11-6-8-9-11z"/><path class="v18" d="M454 439l8-2-6-8-8 2z"/><path class="v23" d="M392 429l8-27-6-21-8 34z"/><path class="v14" d="M367 539l8-30-6-14-8 35z"/><path class="v12" d="M359 583l8-44-6-9-8 40z"/><path class="v7" d="M341 622l9-9-6-21-8 20z"/><path class="v6" d="M333 639l8-17-5-10-9 19z"/><path class="v4" d="M316 671l8-15-5-6-9 13z"/><path class="v0" d="M263 718l9-8-5 2-9-3z"/><path class="v1" d="M644 580l8-2 8 1 8-1 8-6 8 0 8-3-6 1-8 0-8-4-8 5-8 4-8 1-8 1zM278 716l9-5 8-15-5-4-9 13-9 5z"/><path class="v2" d="M627 580l9-1 8 1-6-3-8-1-9 2zM295 696l9-6 9-10-6-3-9 8-8 7z"/><path class="v3" d="M619 564l8 16-6-2-8-16zM313 680l9-6 8-12-6-6-8 15-9 6z"/><path class="v7" d="M612 508l7 56-6-2-7-36zM347 633l9-22-6 2-9 9z"/><path class="v11" d="M604 455l8 53-6 18-8-40zM364 588l9-34-6-15-8 44z"/><path class="v14" d="M587 460l9-35 8 30-6 31-8-24-9 28zM373 554l8-28-6-17-8 30z"/><path class="v12" d="M579 508l8-48-6 30-8 29z"/><path class="v9" d="M570 532l9-24-6 11-9 7z"/><path class="v10" d="M562 505l8 27-6-6-8-26z"/><path class="v13" d="M554 456l8 49-6-5-8-44z"/><path class="v18" d="M546 406l8 50-6 0-8-53zM460 449l8-2-6-10-8 2z"/><path class="v22" d="M537 346l9 60-6-3-9-54zM485 408l9-37-6-1-9 35zM424 412l9 12-6-29-9-8z"/><path class="v27" d="M529 288l8 58-6 3-8-50z"/><path class="v30" d="M511 283l9-15 9 20-6 11-9-15-9 19z"/><path class="v28" d="M503 324l8-41-6 20-8 32z"/><path class="v25" d="M494 371l9-47-6 11-9 35z"/><path class="v20" d="M477 431l8-23-6-3-8 16z"/><path class="v19" d="M468 447l9-16-6-10-9 16zM442 440l9 6 9 3-6-10-9-11-9-7zM390 490l8-33-6-28-8 41z"/><path class="v21" d="M433 424l9 16-6-19-9-26zM398 457l9-23-7-32-8 27z"/><path class="v23" d="M407 434l8-25 9 3-6-25-9 1-9 14z"/><path class="v16" d="M381 526l9-36-6-20-9 39z"/><path class="v8" d="M356 611l8-23-5-5-9 30z"/><path class="v5" d="M339 654l8-21-6-11-8 17z"/><path class="v4" d="M330 662l9-8-6-15-9 17z"/><path class="v0" d="M269 722l9-6-6-6-9 8z"/><path class="v1" d="M650 587l8-1 8 5 8-3 8-8 8-6 8 0-6-5-8 3-8 0-8 6-8 1-8-1-8 2zM275 727l9-9 8-6 9-11-6-5-8 15-9 5-9 6z"/><path class="v2" d="M634 574l8 5 8 8-6-7-8-1-9 1zM301 701l9-5 9-5-6-11-9 10-9 6z"/><path class="v4" d="M626 549l8 25-7 6-8-16zM336 669l9-9-6-6-9 8z"/><path class="v8" d="M618 494l8 55-7 15-7-56zM362 621l8-15-6-18-8 23z"/><path class="v14" d="M611 431l7 63-6 14-8-53z"/><path class="v16" d="M594 453l8-42 9 20-7 24-8-30-9 35z"/><path class="v13" d="M585 501l9-48-7 7-8 48zM560 468l8 42-6-5-8-49z"/><path class="v10" d="M568 510l8 14 9-23-6 7-9 24-8-27zM370 606l9-29-6-23-9 34z"/><path class="v18" d="M552 414l8 54-6-12-8-50zM474 459l9-19-6-9-9 16zM448 458l9 6 9 3-6-18-9-3-9-6z"/><path class="v22" d="M543 354l9 60-6-8-9-60zM492 420l8-35-6-14-9 37z"/><path class="v27" d="M535 300l8 54-6-8-8-58z"/><path class="v30" d="M518 302l8-18 9 16-6-12-9-20-9 15z"/><path class="v28" d="M509 339l9-37-7-19-8 41z"/><path class="v25" d="M500 385l9-46-6-15-9 47z"/><path class="v20" d="M483 440l9-20-7-12-8 23z"/><path class="v17" d="M466 467l8-8-6-12-8 2zM396 511l8-23-6-31-8 33z"/><path class="v19" d="M439 449l9 9-6-18-9-16zM404 488l9-17-6-37-9 23z"/><path class="v21" d="M413 471l9-30 8 8 9 0-6-25-9-12-9-3-8 25z"/><path class="v15" d="M387 550l9-39-6-21-9 36z"/><path class="v12" d="M379 577l8-27-6-24-8 28z"/><path class="v6" d="M353 645l9-24-6-10-9 22z"/><path class="v5" d="M345 660l8-15-6-12-8 21z"/><path class="v3" d="M319 691l8-15 9-7-6-7-8 12-9 6z"/><path class="v1" d="M680 595l8-11 8 2 8-7-6-5-8 0-8 6-8 8zM656 589l8 3 8 1-6-2-8-5-8 1zM280 727l9-9 9-5 9-6-6-6-9 11-8 6-9 9z"/><path class="v0" d="M672 593l8 2-6-7-8 3z"/><path class="v2" d="M648 582l8 7-6-2-8-8zM307 707l9-10 8-7-5 1-9 5-9 5z"/><path class="v3" d="M640 577l8 5-6-3-8-5zM324 690l9-10 9-4-6-7-9 7-8 15z"/><path class="v4" d="M632 555l8 22-6-3-8-25zM342 676l9-10 8-12-6-9-8 15-9 9z"/><path class="v9" d="M624 497l8 58-6-6-8-55zM376 620l9-24-6-19-9 29z"/><path class="v15" d="M617 423l7 74-6-3-7-63zM402 538l9-23-7-27-8 23z"/><path class="v18" d="M609 400l8 23-6 8-9-20zM437 482l8 3 9 2-6-29-9-9-9 0zM419 497l9-22-6-34-9 30z"/><path class="v17" d="M600 438l9-38-7 11-8 42zM558 438l8 44-6-14-8-54zM480 473l9-15-6-18-9 19zM454 487l9 2-6-25-9-6zM411 515l8-18-6-26-9 17z"/><path class="v14" d="M591 503l9-65-6 15-9 48z"/><path class="v10" d="M574 517l8 15 9-29-6-2-9 23-8-14z"/><path class="v13" d="M566 482l8 35-6-7-8-42zM393 567l9-29-6-27-9 39z"/><path class="v22" d="M549 387l9 51-6-24-9-60z"/><path class="v26" d="M541 349l8 38-6-33-8-54z"/><path class="v28" d="M524 345l8-15 9 19-6-49-9-16-8 18z"/><path class="v27" d="M515 373l9-28-6-43-9 37z"/><path class="v24" d="M506 417l9-44-6-34-9 46z"/><path class="v21" d="M498 440l8-23-6-32-8 35z"/><path class="v19" d="M489 458l9-18-6-20-9 20zM428 475l9 7-7-33-8-8z"/><path class="v16" d="M463 489l9-4 8-12-6-14-8 8-9-3z"/><path class="v11" d="M385 596l8-29-6-17-8 27z"/><path class="v7" d="M368 636l8-16-6-14-8 15z"/><path class="v6" d="M359 654l9-18-6-15-9 24z"/><path class="v1" d="M686 594l8-6 8-4 8 1-6-6-8 7-8-2-8 11zM662 596l8 0 8 6-6-9-8-1-8-3zM286 732l9-13 9-5-6-1-9 5-9 9z"/><path class="v0" d="M678 602l8-8-6 1-8-2z"/><path class="v2" d="M646 582l8 8 8 6-6-7-8-7-8-5zM304 714l9-7 8-10 9-3-6-4-8 7-9 10-9 6z"/><path class="v4" d="M638 559l8 23-6-5-8-22zM357 680l8-12-6-14-8 12z"/><path class="v9" d="M630 500l8 59-6-4-8-58zM580 533l8 12-6-13-8-15z"/><path class="v15" d="M623 427l7 73-6-3-7-74zM564 466l8 43-6-27-8-44zM452 509l8 1 9-2 9-2 8-8-6-25-8 12-9 4-9-2-9-2zM417 542l8-13-6-32-8 18z"/><path class="v18" d="M606 441l9-40 8 26-6-4-8-23-9 38z"/><path class="v14" d="M597 505l9-64-6-3-9 65zM408 560l9-18-6-27-9 23z"/><path class="v10" d="M588 545l9-40-6-2-9 29zM391 616l9-31-7-18-8 29z"/><path class="v12" d="M572 509l8 24-6-16-8-35zM400 585l8-25-6-22-9 29z"/><path class="v19" d="M555 433l9 33-6-28-9-51zM504 466l8-26-6-23-8 23z"/><path class="v23" d="M547 400l8 33-6-46-8-38z"/><path class="v25" d="M530 396l8-13 9 17-6-51-9-19-8 15z"/><path class="v24" d="M521 416l9-20-6-51-9 28z"/><path class="v22" d="M512 440l9-24-6-43-9 44z"/><path class="v17" d="M495 492l9-26-6-26-9 18z"/><path class="v16" d="M486 498l9-6-6-34-9 15zM425 529l9-10 9-8 9-2-7-24-8-3-9-7-9 22z"/><path class="v8" d="M382 634l9-18-6-20-9 24z"/><path class="v6" d="M374 649l8-15-6-14-8 16z"/><path class="v5" d="M365 668l9-19-6-13-9 18z"/><path class="v3" d="M330 694l9-5 9-7 9-2-6-14-9 10-9 4-9 10z"/><path class="v1" d="M700 597l8-6 8 0-6-6-8-1-8 4zM660 598l8 2 8 1-6-5-8 0-8-6zM292 729l9-4 9-3-6-8-9 5-9 13z"/><path class="v0" d="M676 601l8 4 8-3 8-5-6-9-8 6-8 8-8-6z"/><path class="v2" d="M652 590l8 8-6-8-8-8zM310 722l8-8 9-6 9-12-6-2-9 3-8 10-9 7z"/><path class="v4" d="M644 570l8 20-6-8-8-23z"/><path class="v9" d="M636 513l8 57-6-11-8-59zM397 629l9-21-6-23-9 31z"/><path class="v15" d="M629 440l7 73-6-13-7-73zM501 514l9-13-6-35-9 26z"/><path class="v18" d="M612 455l9-43 8 28-6-13-8-26-9 40z"/><path class="v14" d="M603 519l9-64-6-14-9 64zM484 531l8-13 9-4-6-22-9 6-8 8zM440 551l9-12 9-1 8-9 9 0-6-21-9 2-8-1-9 2-9 8z"/><path class="v10" d="M594 552l9-33-6-14-9 40zM578 525l8 26-6-18-8-24zM406 608l8-21-6-27-8 25z"/><path class="v8" d="M586 551l8 1-6-7-8-12z"/><path class="v13" d="M570 497l8 28-6-16-8-43zM475 529l9 2-6-25-9 2zM423 577l9-17 8-9-6-32-9 10-8 13z"/><path class="v16" d="M561 478l9 19-6-31-9-33z"/><path class="v19" d="M553 455l8 23-6-45-8-33zM518 483l9-25-6-42-9 24z"/><path class="v21" d="M536 440l8 1 9 14-6-55-9-17-8 13z"/><path class="v20" d="M527 458l9-18-6-44-9 20z"/><path class="v17" d="M510 501l8-18-6-43-8 26z"/><path class="v12" d="M414 587l9-10-6-35-9 18z"/><path class="v7" d="M388 645l9-16-6-13-9 18z"/><path class="v6" d="M380 656l8-11-6-11-8 15z"/><path class="v5" d="M371 672l9-16-6-7-9 19z"/><path class="v3" d="M336 696l9-2 9-7 8-8 9-7-6-4-8 12-9 2-9 7-9 5z"/><path class="v1" d="M706 599l8-5 8-2-6-1-8 0-8 6zM666 605l8 3 8-3-6-4-8-1-8-2zM298 735l9 0 9-4 8-3-6-14-8 8-9 3-9 4z"/><path class="v0" d="M682 605l8 3 8-2 8-7-6-2-8 5-8 3-8-4z"/><path class="v2" d="M658 601l8 4-6-7-8-8zM324 728l9-5 9-6 9-11-6-12-9 2-9 12-9 6z"/><path class="v4" d="M650 583l8 18-6-11-8-20zM377 679l9-14-6-9-9 16z"/><path class="v8" d="M642 533l8 50-6-13-8-57z"/><path class="v14" d="M635 467l7 66-6-20-7-73zM516 526l8-8-6-35-8 18z"/><path class="v17" d="M618 473l9-31 8 25-6-27-8-28-9 43zM533 502l9-13 8 0 9 9-6-43-9-14-8-1-9 18z"/><path class="v13" d="M609 528l9-55-6-18-9 64zM567 514l8 15-5-32-9-19zM507 542l9-16-6-25-9 13z"/><path class="v9" d="M600 564l9-36-6-9-9 33zM584 545l8 23-6-17-8-26zM412 622l8-13 9-11-6-21-9 10-8 21z"/><path class="v7" d="M592 568l8-4-6-12-8-1zM403 638l9-16-6-14-9 21z"/><path class="v11" d="M575 529l9 16-6-20-8-28zM438 590l8-12-6-27-8 9z"/><path class="v15" d="M559 498l8 16-6-36-8-23z"/><path class="v16" d="M524 518l9-16-6-44-9 25z"/><path class="v12" d="M446 578l9-16 9 0 9-4 8-8 9 1 8-5 9-4-6-28-9 4-8 13-9-2-9 0-8 9-9 1-9 12z"/><path class="v10" d="M429 598l9-8-6-30-9 17z"/><path class="v6" d="M394 654l9-16-6-9-9 16z"/><path class="v5" d="M386 665l8-11-6-9-8 11z"/><path class="v3" d="M351 706l9-4 8-11 9-12-6-7-9 7-8 8-9 7z"/><path class="v1" d="M712 604l9-7 7 4-6-9-8 2-8 5zM672 615l8 1-6-8-8-3zM304 751l8-12 9-4 9-2 9-4 9-7-6-5-9 6-9 5-8 3-9 4-9 0z"/><path class="v0" d="M680 616l8 1 8-6 8-4 8-3-6-5-8 7-8 2-8-3-8 3z"/><path class="v2" d="M664 605l8 10-6-10-8-4zM348 722l9-10 9-5 8-6-6-10-8 11-9 4-9 11z"/><path class="v3" d="M656 590l8 15-6-4-8-18zM374 701l9-15-6-7-9 12z"/><path class="v7" d="M648 551l8 39-6-7-8-50zM409 649l9-10 8-11-6-19-8 13-9 16z"/><path class="v12" d="M641 499l7 52-6-18-7-66zM615 550l9-45-6-32-9 55zM565 534l8 8-6-28-8-16zM522 553l8-7-6-28-8 8z"/><path class="v15" d="M624 505l9-28 8 22-6-32-8-25-9 31z"/><path class="v8" d="M606 580l9-30-6-22-9 36zM590 571l8 12-6-15-8-23zM426 628l9-10-6-20-9 11z"/><path class="v6" d="M598 583l8-3-6-16-8 4zM400 662l9-13-6-11-9 16z"/><path class="v9" d="M581 560l9 11-6-26-9-16zM435 618l9-8 9-13-7-19-8 12-9 8z"/><path class="v11" d="M573 542l8 18-6-31-8-15zM479 577l8-2 9-1 9-9 8-2 9-10-6-27-9 16-9 4-8 5-9-1-8 8z"/><path class="v13" d="M556 532l9 2-6-36-9-9zM530 546l9-11-6-33-9 16z"/><path class="v14" d="M539 535l9-3 8 0-6-43-8 0-9 13z"/><path class="v10" d="M453 597l8-4 9-9 9-7-6-19-9 4-9 0-9 16z"/><path class="v5" d="M392 669l8-7-6-8-8 11z"/><path class="v4" d="M383 686l9-17-6-4-9 14z"/><path class="v0" d="M727 609l8-6-7-2-7-4zM686 618l8 0 8-2 8-2 9-8-7-2-8 3-8 4-8 6-8-1z"/><path class="v1" d="M719 606l8 3-6-12-9 7zM670 613l8 4 8 1-6-2-8-1-8-10zM309 754l9-10 9-8 9-1 9 1 9-13-6-1-9 7-9 4-9 2-9 4-8 12z"/><path class="v3" d="M662 598l8 15-6-8-8-15zM380 702l9-10-6-6-9 15z"/><path class="v6" d="M654 566l8 32-6-8-8-39zM596 590l8 7-6-14-8-12zM415 661l9-12 9-4-7-17-8 11-9 10z"/><path class="v10" d="M646 529l8 37-6-15-7-52zM621 576l9-38-6-33-9 45zM562 563l8 0 9 15-6-36-8-8-9-2zM519 583l9-8 8-8-6-21-8 7-9 10z"/><path class="v12" d="M630 538l8-29 8 20-5-30-8-22-9 28z"/><path class="v7" d="M612 600l9-24-6-26-9 30zM587 588l9 2-6-19-9-11zM433 645l8-8 9-11-6-16-9 8-9 10z"/><path class="v5" d="M604 597l8 3-6-20-8 3zM406 673l9-12-6-12-9 13z"/><path class="v9" d="M579 578l8 10-6-28-8-18zM467 616l9-15 9-3 8-5 9-3 9-4 8-3-6-20-8 2-9 9-9 1-8 2-9 7-9 9z"/><path class="v11" d="M536 567l9-8 9 1 8 3-6-31-8 0-9 3-9 11z"/><path class="v8" d="M450 626l9-7 8-3-6-23-8 4-9 13z"/><path class="v4" d="M389 692l9-9 8-10-6-11-8 7-9 17z"/><path class="v2" d="M354 723l9-7 8 0 9-14-6-1-8 6-9 5-9 10z"/><path class="v0" d="M692 623l8-3 8-2 8 0 9-2 8-6 8-7-6 0-8 6-8-3-9 8-8 2-8 2-8 0z"/><path class="v1" d="M676 620l8 3 8 0-6-5-8-1-8-4zM315 757l9 0 9-4 9-4 9-9 9-12-6-5-9 13-9-1-9 1-9 8-9 10z"/><path class="v2" d="M668 608l8 12-6-7-8-15zM360 728l9-3 8-10 9-1-6-12-9 14-8 0-9 7z"/><path class="v5" d="M660 586l8 22-6-10-8-32zM602 607l8-1 8-3 9-11-6-16-9 24-8-3-8-7zM421 674l9-6 9-12-6-11-9 4-9 12z"/><path class="v8" d="M652 558l8 28-6-20-8-37zM627 592l9-31-6-23-9 38zM568 591l8 4 9 4-6-21-9-15-8 0zM473 630l9-7 9 2 8-12 9-5 9-2 8 0 9-5-6-26-9 8-8 3-9 4-9 3-8 5-9 3-9 15z"/><path class="v10" d="M636 561l8-16 8 13-6-29-8-20-8 29z"/><path class="v6" d="M585 599l8 10 9-2-6-17-9-2-8-10zM439 656l8-6 9-14-6-10-9 11-8 8z"/><path class="v9" d="M534 601l8-11 9-6 9-2 8 9-6-28-8-3-9-1-9 8-8 8z"/><path class="v7" d="M456 636l9 0 8-6-6-14-8 3-9 7z"/><path class="v4" d="M404 695l8-9 9-12-6-13-9 12-8 10z"/><path class="v3" d="M386 714l9-8 9-11-6-12-9 9-9 10z"/><path class="v1" d="M739 610l8-2-6-5-8 7zM682 630l8 1 8-8 9-4 8 2-7-3-8 2-8 3-8 0-8-3zM357 752l9-15 9-3-6-9-9 3-9 12zM321 757l9 2-6-2-9 0z"/><path class="v0" d="M715 621l8-2 8-2 8-7-6 0-8 6-9 2-8 0zM330 759l9 0 9-5 9-2-6-12-9 9-9 4-9 4z"/><path class="v2" d="M674 617l8 13-6-10-8-12zM375 734l8 2 9-12 9-10-6-8-9 8-9 1-8 10z"/><path class="v4" d="M666 600l8 17-6-9-8-22zM599 623l9-6 8 3 8 2-6-19-8 3-8 1-9 2zM418 698l9-5 9-10-6-15-9 6-9 12z"/><path class="v6" d="M658 583l8 17-6-14-8-28zM633 612l8-19-5-32-9 31zM574 607l8 3 9 4-6-15-9-4-8-4zM453 668l9-9 9-7 8-10 9-2 9-3-6-12-9-2-9 7-8 6-9 0-9 14z"/><path class="v8" d="M641 593l9-16 8 6-6-25-8-13-8 16z"/><path class="v5" d="M624 622l9-10-6-20-9 11zM591 614l8 9-6-14-8-10zM436 683l9-7 8-8-6-18-8 6-9 12z"/><path class="v7" d="M497 637l8-6 9-4 9-5 8-4 9-5 8 0 9 3 8-8 9-1-6-16-8-9-9 2-9 6-8 11-9 5-8 0-9 2-9 5-8 12z"/><path class="v3" d="M401 714l9-7 8-9-6-12-8 9-9 11z"/><path class="v0" d="M721 629l8-6 8 1 8-4 8-1-6-11-8 2-8 7-8 2-8 2zM336 761l9 2 9-2 9-9-6 0-9 2-9 5-9 0z"/><path class="v1" d="M688 632l8-1 8 0 9 0 8-2-6-8-8-2-9 4-8 8-8-1zM363 752l9-7 9-1 8-6 9-7-6-7-9 12-8-2-9 3-9 15zM327 763l9-2-6-2-9-2z"/><path class="v2" d="M680 625l8 7-6-2-8-13zM398 731l9-6 9-9 8-6-6-12-8 9-9 7-9 10z"/><path class="v3" d="M672 619l8 6-6-8-8-17zM622 628l8-2 9-1-6-13-9 10-8-2zM424 710l9-11 9-5-6-11-9 10-9 5z"/><path class="v5" d="M664 607l8 12-6-19-8-17zM647 613l9-11-6-25-9 16zM588 621l9 7-6-14-9-4zM468 675l9-4 8-14 9-6 9-5-6-9-9 3-9 2-8 10-9 7z"/><path class="v6" d="M656 602l8 5-6-24-8-6zM503 646l8 0 9-6 9-1 8-5 9-5 8 1 9 2 9-7 8-4 8 0-6-11-8-3-9 1-8 8-9-3-8 0-9 5-8 4-9 5-9 4-8 6z"/><path class="v4" d="M639 625l8-12-6-20-8 19zM597 628l8 1 9-1 8 0-6-8-8-3-9 6-8-9zM442 694l9-2 8-9 9-8-6-16-9 9-8 8-9 7z"/><path class="v0" d="M719 635l8-6 8-3 8-1 8 0 8-5-6-1-8 1-8 4-8-1-8 6-8 2zM333 773l9-2 9-5 9-5 9 1-6-10-9 9-9 2-9-2-9 2z"/><path class="v1" d="M686 632l8 5 8-4 9-1 8 3-6-4-9 0-8 0-8 1-8-7zM369 762l9-13 8-5 9-1 9-8 9-6-6-4-9 6-9 7-8 6-9 1-9 7z"/><path class="v2" d="M678 634l8-2-6-7-8-6zM413 729l9-3 8-8-6-8-8 6-9 9z"/><path class="v3" d="M670 623l8 11-6-15-8-12zM611 642l9-2 8-2 8-3 9-3 8-4-6-15-8 12-9 1-8 2-8 0-9 1zM430 718l9-8 9-3 9-7 8-6 9-8-6-11-9 8-8 9-9 2-9 5-9 11z"/><path class="v4" d="M653 628l9-1 8-4-6-16-8-5-9 11zM594 641l9-4 8 5-6-13-8-1-9-7zM474 686l9-5 9-9-7-15-8 14-9 4z"/><path class="v5" d="M492 672l8-6 9-9 9 1 8 0 9-6 8 0 9 5 8-11 9 2 9-10 8 1 8 2-6-20-8 0-8 4-9 7-9-2-8-1-9 5-8 5-9 1-9 6-8 0-9 5-9 6z"/><path class="v0" d="M725 636l8-3 8 3 8-3 9-5 8-5-7-3-8 5-8 0-8 1-8 3-8 6zM339 774l9-1 9-4 9-3 9-4-6 0-9-1-9 5-9 5-9 2z"/><path class="v1" d="M684 639l8 1 8-2 9 2 8 0 8-4-6-1-8-3-9 1-8 4-8-5-8 2zM375 762l9-6 8-1 9-4 9-5 9-10 9-7-6-3-9 3-9 6-9 8-9 1-8 5-9 13z"/><path class="v2" d="M676 634l8 5-6-5-8-11zM428 729l9-5 8-3 9-3 9-6-6-12-9 7-9 3-9 8-8 8z"/><path class="v3" d="M601 652l8-1 8-1 9-5 8 1 9 0 8-4 8-4 9-1 8-3-6-11-8 4-9 1-8 4-9 3-8 3-8 2-9 2-8-5-9 4zM463 712l9-9 8-7 9-9-6-6-9 5-9 8-8 6z"/><path class="v4" d="M489 687l9-7 8-8 9 2 9-4 8-4 9-4 8-4 9 2 9-2 8 3 9-10 8-7 9 8-7-11-8-2-8-1-9 10-9-2-8 11-9-5-8 0-9 6-8 0-9-1-9 9-8 6-9 9z"/><path class="v1" d="M764 625l8 1-6-3-8 5zM690 649l8-1 9-10 8 2 8-4 8 4-6-4-8 4-8 0-9-2-8 2-8-1zM398 760l9-7 9-4 9-9 9-2-6-9-9 7-9 10-9 5-9 4zM354 773l9-2-6-2-9 4z"/><path class="v0" d="M731 640l8 0 9-2 8-2 8-11-6 3-9 5-8 3-8-3-8 3zM363 771l9 3 9-6 9-3 8-5-6-5-8 1-9 6-9 4-9 3zM345 784l9-11-6 0-9 1z"/><path class="v2" d="M632 654l8 1 9-5 8-3 8 5 9-3 8 1 8-1-6-10-8-5-8 3-9 1-8 4-8 4-9 0-8-1zM434 738l9-4 8-6 9-6 9 2 9-13 8-4-6-11-8 7-9 9-9 6-9 3-8 3-9 5z"/><path class="v3" d="M564 678l9-8 8-2 9-2 8-6 9 4 8-7 9 2 8-5-6-9-9 5-8 1-8 1-9-8-8 7-9 10-8-3-9 2zM521 688l9-4 8-6-6-12-8 4-9 4zM486 707l9-11 9-12-6-4-9 7-9 9z"/><path class="v4" d="M538 678l9-2 9-4 8 6-6-18-9-2-8 4-9 4zM504 684l8-4 9 8-6-14-9-2-8 8z"/><path class="v1" d="M762 640l8-10 8 0-6-4-8-1-8 11zM680 651l8 5 8-4 9 0 8-3 8-2 8-4 9-1 8-5 8 6-6-5-9 2-8 0-8-4-8 4-8-2-9 10-8 1-8 1-8-1zM404 764l9-1 9-4 9-8 9-4 9-11-6-2-9 4-9 2-9 9-9 4-9 7zM351 780l9-8 9 2 9-3-6 3-9-3-9 2-9 11z"/><path class="v0" d="M754 643l8-3-6-4-8 2zM378 771l9-1 9 3 8-9-6-4-8 5-9 3-9 6z"/><path class="v2" d="M587 678l9 5 8-7 9-5 8-2 9-5 8-2 9-2 8 0 8-8 9 3 8-4-6-2-9 3-8-5-8 3-9 5-8-1-8 5-9-2-8 7-9-4-8 6-9 2zM570 686l9-5-6-11-9 8zM449 736l8-7 9-3 9-2 9-8 8-6-6-3-8 4-9 13-9-2-9 6-8 6z"/><path class="v3" d="M579 681l8-3-6-10-8 2zM519 691l8 0 9 0 8-4 9 0 9 3 8-4-6-8-8-6-9 4-9 2-8 6-9 4-9-8zM492 710l9-10-6-4-9 11z"/><path class="v4" d="M501 700l9-14 9 5-7-11-8 4-9 12z"/><path class="v1" d="M776 640l9-5-7-5-8 0zM686 658l8 2 9-6 8 1 8-3 8 1 9-10 8 2 8 2 8-1-6-3-8-6-8 5-9 1-8 4-8 2-8 3-9 0-8 4-8-5zM428 765l9-9 9-10 9-3-6-7-9 11-9 4-9 8zM357 785l9-7 9 3 9-3 9-5-6-3-9 1-9 3-9-2-9 8z"/><path class="v0" d="M760 646l8-3 8-3-6-10-8 10-8 3zM393 773l9 2 9-2 8-7 9-1-6-6-9 4-9 1-8 9-9-3z"/><path class="v2" d="M559 691l9-2 8-2 9 2 8 3 9-4 8-4 9-6 8-3 9-4 8-6 9-1 8 6 8-4 9-2 8-6-6-7-8 4-9-3-8 8-8 0-9 2-8 2-9 5-8 2-9 5-8 7-9-5-8 3-9 5-8 4-9-3zM455 743l8-10 9-3 9-1 9-3 9-6-7-10-8 6-9 8-9 2-9 3-8 7z"/><path class="v3" d="M499 720l8-7 9-4 9-6 8-13 9 0 9 8 8-7-6-4-9 0-8 4-9 0-8 0-9-5-9 14-9 10z"/><path class="v0" d="M766 649l9-4 8 0 8-6-6-4-9 5-8 3-8 3zM408 781l9-4 8-4 9-4 9-3-6-10-9 9-9 1-8 7-9 2zM381 789l9-3-6-8-9 3z"/><path class="v1" d="M667 676l9-3 8-3 8-7 9 1 8-5 8-1 8 1 9-2 8-8 8-1 8-1 8 2-6-3-8 1-8-2-8-2-9 10-8-1-8 3-8-1-9 6-8-2-8 6-9 2-8 4zM600 696l8-5-6-3-9 4zM443 766l9-16 9-5-6-2-9 3-9 10zM390 786l9-10 9 5-6-6-9-2-9 5zM363 781l9 3 9 5-6-8-9-3-9 7z"/><path class="v2" d="M608 691l9-5 8 1 9-9 8 0 9-6 8 6 8-2-6-6-8-6-9 1-8 6-9 4-8 3-9 6-8 4zM557 704l8-5 9 0 9-4 8 4 9-3-7-4-8-3-9-2-8 2-9 2-8 7zM461 745l9-9 8-1 9-2 9 1 9-5 8 1 9-9 9-11-6-7-9 6-9 4-8 7-9 6-9 3-9 1-9 3-8 10z"/><path class="v3" d="M531 710l8-4 9-1 9-1-6-6-9-8-9 0-8 13z"/><path class="v1" d="M674 675l8-1 8 2 9-6 8 5 8-6 8 2 9-3 8 1 8-8 8-8 9-3 8 0 8-9 8-1 8-5-6 4-8 6-8 0-9 4-8-2-8 1-8 1-8 8-9 2-8-1-8 1-8 5-9-1-8 7-8 3-9 3zM597 703l9-3 8 5 9-9-6-10-9 5-8 5-9 3zM502 739l9-1 8-3 9-10-6-4-9 9-8-1-9 5zM449 766l9-12 9-6-6-3-9 5-9 16zM369 782l9-3 9 5 9 5 9-17 9 8-6 1-9-5-9 10-9 3-9-5-9-3z"/><path class="v2" d="M623 696l8-5 9-8 8-6 9 0 8-3 9 1-7 1-8 2-8-6-9 6-8 0-9 9-8-1zM528 725l9-6 9 0 8-1 9-7 9-6 8 0 9-7 8 5-6-4-8-4-9 4-9 0-8 5-9 1-9 1-8 4-9 11zM467 748l9-9 8 1 9-1 9 0-6-5-9-1-9 2-8 1-9 9z"/><path class="v0" d="M414 780l9 2 8-4 9-5 9-7-6 0-9 3-9 4-8 4-9 4z"/><path class="v1" d="M754 667l9-10 8-3 8-7 8 1 9-5 8-6-7-2-8 5-8 1-8 9-8 0-9 3-8 8zM680 687l8-5 8-5 9-1 8 5 8-4 8 2-6-8-8-2-8 6-8-5-9 6-8-2-8 1zM612 705l8 2 9-9 9-2-7-5-8 5-9 9-8-5zM508 742l9-2 9 3 8-8-6-10-9 10-8 3-9 1zM438 780l8-7 9-10 9-8-6-1-9 12-9 7-9 5zM384 783l9 4 9 5 9-7 9 4-6-9-9-8-9 17-9-5-9-5z"/><path class="v0" d="M729 679l9-8 8-1 8-3-6-6-8 8-8-1-9 3zM420 789l9-2 9-7-7-2-8 4-9-2z"/><path class="v2" d="M638 696l8-3 8-3 9-9 8 6 9 0-6-12-9-1-8 3-9 0-8 6-9 8zM534 735l9-9 9-5 8 2 9-4 9-5 8 0 9-4 8-5 9 0-6-5-9 3-8-5-9 7-8 0-9 6-9 7-8 1-9 0-9 6zM464 755l9 0 9-7 9-8 8 0 9 2-6-3-9 0-9 1-8-1-9 9-9 6zM374 779l10 4-6-4-9 3z"/><path class="v1" d="M761 673l8-7 8-8 8-2 9-4 8-2 8-6-6-7-8 6-9 5-8-1-8 7-8 3-9 10zM678 687l8 5 8-2 9-4 8 5 8-5-6-5-8-5-9 1-8 5-8 5-9 0zM644 702l8-6-6-3-8 3zM567 726l8 0 9-3-6-9-9 5-9 4zM514 748l9 0 9 4 8-5 9-11-6-10-9 9-8 8-9-3-9 2zM444 783l8-11 9-6 9-2 9-6-6-3-9 0-9 8-9 10-8 7zM390 791l9 4 9-5 9 0 9 3-6-4-9-4-9 7-9-5-9-4z"/><path class="v0" d="M719 686l9-4 8 0 8-3 8-3 9-3-7-6-8 3-8 1-9 8-8-2-8 4zM426 793l9-2 9-8-6-3-9 7-9 2z"/><path class="v2" d="M652 696l9-6 8 0 9-3-7 0-8-6-9 9-8 3zM584 723l9-6 8-5 9-3 8-4 9-4 8-1 9 2-6-6-9 2-9 9-8-2-9 0-8 5-9 4-8 0zM549 736l9-3 9-7-7-3-8-2-9 5zM479 758l9-4 9-6 9-6 8 6-6-6-9-2-8 0-9 8-9 7zM381 791l9 0-6-8-10-4z"/><path class="v1" d="M775 671l9-10 8 3 8-3 8-5 8 0-6-12-8 6-8 2-9 4-8 2-8 8zM675 701l9-4 8-6 9 4 8-2 8 0-6-2-8-5-9 4-8 2-8-5-9 3zM520 753l9-8 9 3 9-1 8-8 9-3 9-3-6-7-9 7-9 3-9 11-8 5-9-4-9 0zM450 791l9-7 9-12 8-2 9 1 9-10-6-7-9 4-9 6-9 2-9 6-8 11zM396 795l9 5 9-6 9 0 9 6-6-7-9-3-9 0-9 5-9-4z"/><path class="v0" d="M717 693l9-7 8 0 8-4 8 2 9-6 8-5 8-2-6-5-8 7-9 3-8 3-8 3-8 0-9 4-8 5zM432 800l9-10 9 1-6-8-9 8-9 2z"/><path class="v2" d="M573 733l9-9 8-3 9 0 8 0 9-6 8 0 9-4 9-5 8-3 9-7 8 0 8 5-6-11-8 0-9 6-8 6-9-2-8 1-9 4-8 4-9 3-8 5-9 6-9 3-8 0zM494 761l9-10 9 2 8 0-6-5-8-6-9 6-9 6zM387 797l9-2-6-4-9 0z"/><path class="v0" d="M798 669l8-1 8-4 9-1-7-7-8 0-8 5-8 3zM715 702l9-6 8 1 8-7 9-1 8-7 8 2 8-5 9-6-7-2-8 2-8 5-9 6-8-2-8 4-8 0-9 7-8 0zM438 798l9 3 9-3-6-7-9-1-9 10z"/><path class="v1" d="M782 673l8-6 8 2-6-5-8-3-9 10zM673 709l9 0 8-11 9 3 8-1 8 2-6-9-8 2-9-4-8 6-9 4-8-5zM605 729l9 2 8-5 9-6 8 0 9-2 8-3 9-3-6-16-9 7-8 3-9 5-9 4-8 0-9 6-8 0zM570 743l9-1-6-9-9 3zM518 763l9-6 8-2 9-8 9-2-6 2-9 1-9-3-9 8-8 0zM456 798l9-12 9-5 9 4 8-11 9-5-6-8-9 10-9-1-8 2-9 12-9 7zM393 810l9 0 9 1 9-1 9-4 9-8-6 2-9-6-9 0-9 6-9-5-9 2z"/><path class="v2" d="M665 712l8-3-6-13-8 0zM579 742l9-11 8-4 9 2-6-8-9 0-8 3-9 9zM553 745l9-7 8 5-6-7-9 3-8 8zM500 769l9-4 9-2-6-10-9-2-9 10z"/><path class="v0" d="M804 674l9 0 8-6 8 0-6-5-9 1-8 4-8 1zM713 708l9-3 8-2 8-2 9-3 8-3 8-5 8-2 9-6 8-5-6-4-9 6-8 5-8-2-8 7-9 1-8 7-8-1-9 6-8-2zM417 815l9 0 9-3 9-4 9-4 9-2-6-4-9 3-9-3-9 8-9 4-9 1z"/><path class="v1" d="M788 677l8 1 8-4-6-5-8-2-8 6zM611 732l9-3 8 3 9-4 9-5 8 4 8 2 9-3 8-2 9-3 8-9 9-7 8 3-6-8-8 1-9-3-8 11-9 0-8 3-9 3-8 3-9 2-8 0-9 6-8 5-9-2zM577 749l8-8 9-1-6-9-9 11-9 1zM462 802l9-16 9 0 9-2 9-1 8-1 9-3 9-7 9-4 9-8 8-2 9-7-6-6-9 2-9 8-8 2-9 6-9 2-9 4-9 5-8 11-9-4-9 5-9 12zM399 819l9-1 9-3-6-4-9-1-9 0z"/><path class="v2" d="M594 740l9-6 8-2-6-3-9-2-8 4zM559 751l9-4 9 2-7-6-8-5-9 7z"/><path class="v0" d="M795 681l8 2 8-3 8-5 8-1 8-3-6-3-8 0-8 6-9 0-8 4-8-1zM720 712l8-3 8 0 9-3 8-2 8-7 9-4 8 1 8-8-6-4-9 6-8 2-8 5-8 3-9 3-8 2-8 2-9 3zM660 732l9-1 8-3 9-3 8 0 9-5-7-8-8 9-9 3-8 2-9 3-8-2zM504 789l9-2 8-3-6-5-9 3-8 1zM405 830l9-10 9 1 9-1 9-7 9 0 9-6 9-1-6-4-9 2-9 4-9 4-9 3-9 0-9 3-9 1z"/><path class="v1" d="M786 686l9-5-7-4-8 5zM703 720l8-5 9-3-7-4-8-3-9 7zM521 784l9-4 9-10 9-10 9-2 8-3 9 3 9 0 9-4 8-8 9 0 9-8 8 2 9-3 8-4 9-3 8 2-6-5-8-4-9 5-9 4-8-3-9 3-8 2-9 6-9 1-8 8-9-2-9 4-9 7-8 2-9 8-9 4-9 7zM468 806l9-5 9-4 9-7 9-1-6-6-9 1-9 2-9 0-9 16z"/><path class="v0" d="M667 734l8 3 9-3 8-2 9-3 8-5 8-6 9 0 8-3 9-1 8-6 8-1 9-7 8-3 8-1 9-8 8 4 8-3 8-4 9-9 8 1 8 0-7-6-8 3-8 1-8 5-8 3-8-2-9 5-8 8-8-1-9 4-8 7-8 2-9 3-8 0-8 3-9 3-8 5-9 5-8 0-9 3-8 3-9 1zM429 822l9-2 10-3 8-3 9 2 9-5 9-6 9 1 9-5 9-5 9-3 9-2 9-10-7-1-9 4-8 3-9 2-9 1-9 7-9 4-9 5-9 1-9 6-9 0-9 7-9 1zM411 832l9-5-6-7-9 10z"/><path class="v1" d="M537 781l8-5 9-10 9-3 9-5 8 3 9 3 9-10 8 5 9-3 9-4 8-6 9-5 9-1 8-2 9-4-7-2-8-2-9 3-8 4-9 3-8-2-9 8-9 0-8 8-9 4-9 0-9-3-8 3-9 2-9 10-9 10zM420 827l9-5-6-1-9-1z"/><path class="v0" d="M664 746l9-2 8-5 9-1 8-3 9-6 8-2 9-3 8-3 9-5 8-1 9-6 8-2 8-2 8 1 9-8 8-3 8-3 9-3 8 0 8-4 8-1 8-8-6 1-8 0-8-1-9 9-8 4-8 3-8-4-9 8-8 1-8 3-9 7-8 1-8 6-9 1-8 3-9 0-8 6-8 5-9 3-8 2-9 3-8-3-9 4zM613 767l8-8 9-1-6-6-9 4-9 3zM417 834l10 2 9-5 9-3 9-2 9-4 9-2 9-4 9-3 8-3 9-3 9-4 9-3 9-5 9-5-6-9-9 10-9 2-9 3-9 5-9 5-9-1-9 6-9 5-9-2-8 3-10 3-9 2-9 5-9 5z"/><path class="v1" d="M630 758l9-7 8-1 9 0 8-4-6-8-8 2-9 1-9 5-8 6zM543 790l9-10 8 3 9-8 9-10 9-5 8 7 9-1 9 1-7-8-8-5-9 10-9-3-8-3-9 5-9 3-9 10-8 5z"/><path class="v0" d="M713 734l9-3 8 1 9-8 8-1 8-2 9-4 8-6 9-2 8-2 8-4 9-3 8-4 8-3 8-4 8 1 9-7 8 0-7-7-8 8-8 1-8 4-8 0-9 3-8 3-8 3-9 8-8-1-8 2-8 2-9 6-8 1-9 5-8 3-9 3-8 2zM654 756l8-6 9 2 8-4 9-3 8-6 9-6-7 2-8 3-9 1-8 5-9 2-8 4-9 0zM619 771l9-7-7-5-8 8zM424 841l9-2 9-2 9-4 9-6 9 0 9-6 9-3 9-1 9-3 9-4 9-3 8-2 9-6 9-1-6-8-9 5-9 5-9 3-9 4-9 3-8 3-9 3-9 4-9 2-9 4-9 2-9 3-9 5-10-2z"/><path class="v1" d="M705 733l8 1-6-5-9 6zM628 764l8-5 9-2 9-1-7-6-8 1-9 7-9 1zM549 798l9-4 9-9 9-5 8-3 9-2 9-7 8-2 9 5-6-4-9-1-9 1-8-7-9 5-9 10-9 8-8-3-9 10z"/><path class="v0" d="M720 737l8 0 9-1 8-5 9-3 8-7 8-3 9 0 8-1 8-3 9-8 8-2 8-2 9-5 8-3 8-3 8 2 8-7-6-3-8 0-9 7-8-1-8 4-8 3-8 4-9 3-8 4-8 2-9 2-8 6-9 4-8 2-8 1-9 8-8-1-9 3zM669 754l8 0 9 0 8-2 9-8-7-5-8 6-9 3-8 4-9-2zM625 772l9-1 9-1 8-7-6-6-9 2-8 5-9 7zM493 821l9-2 9 0 9-7 9-1 9-2 9-5 8-1 9-4 9-8-6-6-9 9-9 4-9 1-9 6-8 2-9 3-9 4-9 3-9 1zM430 846l9-1 9-4 9-5 9-6 9-4-6 1-9 0-9 6-9 4-9 2-9 2z"/><path class="v1" d="M703 744l8-6 9-1-7-3-8-1-9 6zM651 763l9-8 9-1-7-4-8 6-9 1zM573 791l9-7 9 4 8-3 9-7 9-4 8-2-6-1-9-5-8 2-9 7-9 2-8 3-9 5zM475 826l9-5 9 0-6-3-9 3-9 6z"/><path class="v0" d="M852 694l8-1 8-1-7-6-8 7-8-2zM819 707l8 0 8-8-6-2-9 5-8 2zM777 723l8 0 8-1 9-4-7-4-8 3-8 1-9 0zM718 746l8 0 9-3 8-3 9-5 8-2 9-9-7-3-8 7-9 3-8 5-9 1-8 0-9 1zM675 763l9-2 8-2 9-4 8-4-6-7-9 8-8 2-9 0-8 0zM640 773l9-4 9-1-7-5-8 7-9 1zM597 792l9-8 8 0-6-6-9 7-8 3zM499 829l9-4 9 0 9-8 9-3 9-1 9-4 9-4 9-6 8-1-6-7-9 8-9 4-8 1-9 5-9 2-9 1-9 7-9 0-9 2zM445 846l9-2 9-1 9-8 9 2-6-11-9 4-9 6-9 5-9 4z"/><path class="v1" d="M835 699l9-9 8 4-7-3-8 3-8 3zM802 718l8-12 9 1-7-3-8 2-9 8zM769 724l8-1-7-5-8 3zM709 751l9-5-7-8-8 6zM658 768l8-6 9 1-6-9-9 1-9 8zM614 784l9-9 9-1 8-1-6-2-9 1-8 2-9 4zM579 798l9-2 9-4-6-4-9-4-9 7zM481 837l9-13 9 5-6-8-9 0-9 5zM436 842l9 4-6-1-9 1z"/></g>
<path d="M212.3 450.4L463.1 356.3M45.8 319.5L212.3 450.4M45.8 319.5L37.1 118.5M234.1 446.2L228.7 442.1M195.7 442.2L202.1 439.8M290.4 425.1L284.9 421M157.8 412.3L164.2 410M345.2 404.5L339.6 400.5M121.3 383.6L127.7 381.3M398.5 384.4L392.9 380.5M86.1 355.9L92.5 353.7M450.5 364.8L444.8 361.1M52.2 329.2L58.6 327.1M39.9 281.6L46.4 279.5M38.2 243.6L44.7 241.5M36.6 205L43.1 203M34.9 165.8L41.4 163.9M33.2 126L39.7 124.1" stroke="#111" stroke-width="0.85" fill="none"/>
<g class="tk" font-size="14"><text x="239.8" y="471.5">−10</text><text x="187.7" y="466.3">−10</text><text x="295.8" y="449.9">−5</text><text x="149.7" y="436">−5</text><text x="350.3" y="429">0</text><text x="113.2" y="406.8">0</text><text x="403.3" y="408.6">5</text><text x="78.1" y="378.7">5</text><text x="455" y="388.7">10</text><text x="44.2" y="351.5">10</text></g>
<text class="al" x="365.2" y="449.9" font-size="16.4">x</text>
<text class="al" x="92.2" y="422.1" font-size="16.4">y</text>
<text class="zl" transform="translate(18.5 221.1) rotate(87.5)" font-size="16.4">|<tspan class="i">u</tspan>(<tspan class="i">x</tspan>,<tspan class="i" dx="3.2">y</tspan>)|</text>
<linearGradient id="g0" x1="0" y1="0" x2="0" y2="1"><stop offset="0%" stop-color="#fde725"/><stop offset="6.2%" stop-color="#d8e219"/><stop offset="12.5%" stop-color="#addc30"/><stop offset="18.8%" stop-color="#84d44b"/><stop offset="25%" stop-color="#5ec962"/><stop offset="31.2%" stop-color="#3fbc73"/><stop offset="37.5%" stop-color="#28ae80"/><stop offset="43.8%" stop-color="#1fa088"/><stop offset="50%" stop-color="#21918c"/><stop offset="56.2%" stop-color="#26828e"/><stop offset="62.5%" stop-color="#2c728e"/><stop offset="68.8%" stop-color="#33638d"/><stop offset="75%" stop-color="#3b528b"/><stop offset="81.2%" stop-color="#424086"/><stop offset="87.5%" stop-color="#472d7b"/><stop offset="93.8%" stop-color="#48186a"/><stop offset="100%" stop-color="#440154"/></linearGradient>
<rect x="488.6" y="97.4" width="20" height="295" fill="url(#g0)" stroke="#111" stroke-width="0.85"/>
<path d="M508.6 337h3.3M508.6 276.8h3.3M508.6 216.6h3.3M508.6 156.4h3.3" stroke="#111" stroke-width="0.85" fill="none"/>
<g class="cb" font-size="12.0"><text x="515.5" y="340.6">2</text><text x="515.5" y="280.4">4</text><text x="515.5" y="220.2">6</text><text x="515.5" y="160">8</text></g>
<text class="cb" font-size="12.0" x="509" y="94.4" text-anchor="end">×10<tspan dy="-4.6" font-size="8.4">−2</tspan></text>
<text class="cap" transform="translate(266 543) scale(1.06 1)" font-size="42" textLength="309.4" lengthAdjust="spacing">(a) Ground Truth</text>
</g>
<g id="pb">
<path d="M642.5 319.3L882.6 239.8M882.6 239.8L1059.7 356.1M633.8 118.4L884 47.3M884 47.3L1068.8 151.4M882.6 239.8L884 47.3M1059.7 356.1L1068.8 151.4M808.9 450.2L642.5 319.3M808.9 450.2L1059.7 356.1M642.5 319.3L633.8 118.4" stroke="#f0f0f0" stroke-width="0.9" fill="none"/>
<path d="M827.3 443.3L659.9 313.5M659.9 313.5L652 113.2M796.5 440.4L1046.5 347.4M1046.5 347.4L1055 143.6M883.5 422.2L713.6 295.8M713.6 295.8L708 97.3M758.6 410.6L1006.3 321M1006.3 321L1012.9 119.9M938.2 401.7L766 278.4M766 278.4L762.6 81.8M722.1 381.9L967.5 295.6M967.5 295.6L972.4 97.1M991.4 381.7L817.1 261.5M817.1 261.5L815.8 66.7M686.9 354.2L930.1 271M930.1 271L933.4 75.1M1043.3 362.2L866.9 245M866.9 245L867.7 51.9M653.1 327.6L894 247.3M894 247.3L895.8 53.9M640.8 280L882.9 202.1M882.9 202.1L1061.4 316.1M639.2 242.1L883.2 165.8M883.2 165.8L1063.2 277.5M637.5 203.6L883.4 128.8M883.4 128.8L1064.9 238.2M635.8 164.4L883.7 91.4M883.7 91.4L1066.7 198.3M634.1 124.6L884 53.3M884 53.3L1068.5 157.8" stroke="#b6b6b6" stroke-width="0.85" fill="none"/>
<g transform="scale(0.5)" stroke-width="1.3" stroke-linejoin="round"><path class="v0" d="M1722 510l8-8 8-1 8-2 8-6 8 2-5-6-8 1-8 8-8 3-8 2-8-2zM1674 525l8-2 8-2 8-7-5-7-8 8-8 1-9 3zM1642 534l8 0-6-12-8 11zM1576 552l8 0 8-1 9-4 8-6-6-1-8 5-8 3-8 2-9 3zM1363 624l9 2 9-8-6-1-8 2-9-1z"/><path class="v1" d="M1698 514l8-10 8 2 8 4-5-9-8-6-8 7-8 5zM1650 534l8-9 8-1 8 1-6-6-8-3-8 4-8 2zM1609 541l8-3 8-4 8-4 9 4-6-1-8 1-8 0-9 2-8 4zM1551 553l8 2 8-2 9-1-6 1-8-5-8 0-9-2zM1526 561l8-4-6-6-8 2zM1381 618l8-8 9 1 9-5 8 2 9-6 8-8 9-2 8-3 9-3 8-10 9 2 8 0 9-7 8-2-5-2-9 3-8 2-9 2-8 4-8 7-9 3-9-1-8 3-9 9-8 1-9 4-8 7-9 1-9 5zM1346 635l8-12 9 1-5-6-9 2-8 6z"/><path class="v2" d="M1534 557l8-8 9 4-6-7-8 1-9 4zM1500 569l9-5 8-1 9-2-6-8-8-1-9 3-8 12z"/><path class="v0" d="M1720 511l8 2 8-4 8-6 8 1 8-4 8-6-6 1-8-2-8 6-8 2-8 1-8 8-8-4zM1647 537l8-3 8-1 9 0 8-3 8-7 8 0 8-8-6-1-8 7-8 2-8 2-8-1-8 1-8 9-8 0zM1590 554l8-1 8-4-5-2-9 4-8 1zM1369 628l8-1 9-3-5-6-9 8-9-2z"/><path class="v1" d="M1704 515l8-5 8 1-6-5-8-2-8 10zM1606 549l8-5 9 1 8-7 8-4 8 3-5-3-9-4-8 4-8 4-8 3-8 6zM1565 554l8-2 8 0 9 2-6-2-8 0-9 1-8 2zM1523 568l8 0 8-11-5 0-8 4-9 2zM1480 578l9-4 8-1 9-4-6 0-8 2-9 7-8 0zM1386 624l9-4 9-1 8-13 9 0 8 1 9-9 8-3 9-8 8 0 9-5-6-6-8 10-9 3-8 3-9 2-8 8-9 6-8-2-9 5-9-1-8 8zM1351 636l9-11 9 3-6-4-9-1-8 12z"/><path class="v2" d="M1539 557l9-6 8-1 9 4-6 1-8-2-9-4-8 8zM1506 569l8-5 9 4-6-5-8 1-9 5zM1472 582l8-4-5 0-9-2z"/><path class="v0" d="M1726 518l8-1 8-4 8-6 8-2 8 0 8-2-6-9-8 6-8 4-8-1-8 6-8 4-8-2zM1661 535l8-2 8-3 8 3 8-2 9-5 8-5-6-6-8 8-8 0-8 7-8 3-9 0-8 1z"/><path class="v1" d="M1710 521l8-3 8 0-6-7-8-1-8 5zM1570 557l9-1 8 2 8-3 8-1 9-5 8-3 8 4 8-2 9-4 8-7 8-2-6-1-8 3-8-3-8 4-8 7-9-1-8 5-8 4-8 1-9-2-8 0-8 2zM1357 639l8-2 9-11 9-2 8 0 9-4 9 2 8-8 9-5 9 4 8-5 9-13 8-4-5-4-9 8-8 3-9 9-8-1-9 0-8 13-9 1-9 4-9 3-8 1-9-3-9 11z"/><path class="v2" d="M1460 591l9-6 8-3 9 5 8-9 9-7 8-4 9-3 8 0 9-5 8-2 8-7 9 6 8 1-5-3-9-4-8 1-9 6-8 11-8 0-9-4-8 5-9 4-8 1-9 4-8 4-9 5-8 0z"/><path class="v0" d="M1683 539l8-2 8-6 8 0 8-4 8-2 8-1 8-3 8-5 8-4 8 1 8-3 8-4-5-3-8 2-8 0-8 2-8 6-8 4-8 1-8 0-8 3-8 5-9 5-8 2-8-3zM1440 620l9-8-6-4-8 5zM1362 647l9-3-6-7-8 2z"/><path class="v1" d="M1576 557l8 4 8-9 9 3 8 0 8 0 9-6 8 0 8-5 8-1 8 2 9-5 8-6 8 5-6-9-8 3-8 2-8 2-8 7-9 4-8 2-8-4-8 3-9 5-8 1-8 3-8-2-9 1zM1449 612l8-13-5-4-9 13zM1371 644l8-12 9 0 9-6 9-2 8-3 9 3 8-13 9 9-5-7-9-4-9 5-8 8-9-2-9 4-8 0-9 2-9 11z"/><path class="v2" d="M1559 554l8 0 9 3-6 0-8-1-9-6zM1517 569l8-3 9-7-6 5-8 0-9 3zM1457 599l9-8 8-4 9-6 8 1 9-11-6 7-8 9-9-5-8 3-9 6-8 4z"/><path class="v3" d="M1534 559l8-7 8-1 9 3-6-4-8 7-8 2-9 5zM1500 571l8-8 9 6-6-2-8 4-9 7z"/><path class="v0" d="M1745 520l8-1 8 1 8-4 8-3 8-3-6-4-8 4-8 3-8-1-8 4-8 5zM1680 545l9-1 8-5 8-6 8 0 8-1 8-4-6-3-8 2-8 4-8 0-8 6-8 2-8-5zM1664 550l8-3-5-7-9 5zM1368 648l8-1-5-3-9 3z"/><path class="v1" d="M1729 528l8-9 8 1-6 1-8 3-8 1zM1672 547l8-2-5-11-8 6zM1615 553l8-3 8-2 8 5 9-5 8-1 8 3-6-5-8-2-8 1-8 5-8 0-9 6-8 0zM1376 647l9-9 9-4 8-1 9-6 9-5 8 2 9-5 9-3 8-9 9-6-6-2-8 13-9 8-9-9-8 13-9-3-8 3-9 2-9 6-9 0-8 12z"/><path class="v2" d="M1581 553l9 3 8 0 8-5 9 2-6 2-8 0-9-3-8 9-8-4zM1463 601l8-11 9-4 8-6-5 1-9 6-8 4-9 8z"/><path class="v3" d="M1522 560l9-1 8-3 8-2 9-3 8-6 9 4 8 4-5 4-9-3-8 0-9-3-8 1-8 7-9 7-8 3zM1488 580l9-4 8-11-5 6-9 11-8-1z"/><path class="v4" d="M1505 565l8-8 9 3-5 9-9-6-8 8z"/><path class="v0" d="M1767 517l8 1 8-3 8-1-6-4-8 3-8 3-8 4zM1670 555l8-4 8-3 8-2 8-3 9-4 8-6 8 2 8-7-6 0-8 4-8 1-8 0-8 6-8 5-9 1-8 2-8 3zM1382 651l8-7-5-6-9 9z"/><path class="v1" d="M1735 528l8 2 8-9 8-6 8 2-6 3-8-1-8 1-8-1-8 9zM1645 545l8-1 9 2 8 9-6-5-8-3-8 1-9 5zM1390 644l9-3 9-10 8-5 9 4 9-2 8-11 9-2-5 1-9 3-9 5-8-2-9 5-9 6-8 1-9 4zM1373 645l9 6-6-4-8 1z"/><path class="v2" d="M1604 548l8 1 8 1 9-4 8-2 8 1-6 8-8-5-8 2-8 3-9-2-8 5zM1451 615l8-12 9-4 8-10-5 1-8 11-9 6-8 9z"/><path class="v3" d="M1570 547l8 3 9 0 8-6 9 4-6 8-8 0-9-3-8-4-9-4zM1476 589l9-3 9-3 8-12-5 5-9 4-8 6-9 4z"/><path class="v4" d="M1527 547l9 0 8 5 9 0 8 0 9-5-6-2-8 6-9 3-8 2-8 3-9 1zM1502 571l8-5 9-12-6 3-8 8-8 11z"/><path class="v5" d="M1519 554l8-7-5 13-9-3z"/><path class="v0" d="M1781 517l8 1 8 0-6-4-8 1-8 3zM1675 558l9-1 8-4 8-4 8-1 8-3 8-7 8 0 9-2 8-1 8-7-6-7-8 9-8-2-8 7-8-2-8 6-9 4-8 3-8 2-8 3-8 4z"/><path class="v1" d="M1757 528l8-5 8-4 8-2-6 1-8-1-8-2-8 6zM1667 546l8 12-5-3-8-9zM1378 648l9 5 9-6 9-6 8-7 9-3 9 0 8-6 9-7-6-1-8 11-9 2-9-4-8 5-9 10-9 3-8 7-9-6z"/><path class="v2" d="M1642 545l9-3 8 4 8 0-5 0-9-2-8 1-8-1zM1448 618l8-7 9-10 9 1-6-3-9 4-8 12-9 2z"/><path class="v3" d="M1609 541l9 7 8-2 8-5 8 4-5-1-8 2-9 4-8-1-8-1zM1474 602l8-12 8-9-5 5-9 3-8 10z"/><path class="v4" d="M1575 537l9 6 8-2 9 0 8 0-5 7-9-4-8 6-9 0-8-3zM1490 581l9-10 8-10-5 10-8 12-9 3z"/><path class="v5" d="M1507 561l9-10 8-7 9-1 8-3 9-1 8 0 9-1 8-1-5 10-9 5-8 0-9 0-8-5-9 0-8 7-9 12-8 5z"/><path class="v0" d="M1794 522l8 0-5-4-8 0zM1681 561l8-4 9 1 8-2 8-6 8-4 8-2 8-2 8 0 8-4 8-5 8 0-5-10-8 5-8 7-8 1-9 2-8 0-8 7-8 3-8 1-8 4-8 4-9 1z"/><path class="v1" d="M1770 533l8-5 8-7 8 1-5-4-8-1-8 2-8 4zM1673 553l8 8-6-3-8-12zM1384 652l8-2 9-9 9 1 9-7 8-4 9 3 9-7-6-2-8 6-9 0-9 3-8 7-9 6-9 6-9-5z"/><path class="v2" d="M1656 540l9 6 8 7-6-7-8 0-8-4zM1445 627l8-12-5 3-9 7z"/><path class="v3" d="M1623 543l8-4 9 3 8 2 8-4-5 2-9 3-8-4-8 5-8 2zM1453 615l9-13 8-6 9 1-5 5-9-1-9 10-8 7z"/><path class="v4" d="M1606 533l9 8 8 2-5 5-9-7-8 0zM1479 597l8-17 9-2 8-11-5 4-9 10-8 9-8 12z"/><path class="v5" d="M1581 528l8 9 9-6 8 2-5 8-9 0-8 2-9-6zM1504 567l9-14-6 8-8 10z"/><path class="v6" d="M1555 532l9-4 8-3 9 3-6 9-8 1-9 1-8 0zM1513 553l8-10 9-5 8-4-5 9-9 1-8 7-9 10z"/><path class="v7" d="M1538 534l9-9 8 7-5 7-9 1-8 3z"/><path class="v0" d="M1728 550l8-2 8-1 8-2 8-3 8-4 8-2 8-6 8 1 8-5 8 0-6-4-8 0-8-1-8 7-8 5-8 0-8 5-8 4-8 0-8 2-8 2zM1703 560l8-6-5 2-8 2z"/><path class="v1" d="M1711 554l9-11 8 7-6-4-8 4-8 6zM1679 552l8 1 8 4 8 3-5-2-9-1-8 4-8-8zM1389 659l9-8 9-7 8-2-5 0-9-1-9 9-8 2z"/><path class="v2" d="M1670 546l9 6-6 1-8-7zM1415 642l9-4 9-8 8-3 9-3 9-4-6-5-8 12-9 7-9-3-8 4-9 7z"/><path class="v3" d="M1645 540l9 1 8-2 8 7-5 0-9-6-8 4-8-2zM1459 620l8-8-5-10-9 13z"/><path class="v4" d="M1620 537l9 2 8 0 8 1-5 2-9-3-8 4-8-2zM1467 612l9-21 8-6 9-9-6 4-8 17-9-1-8 6z"/><path class="v5" d="M1612 529l8 8-5 4-9-8zM1493 576l8-9 9-8-6 8-8 11-9 2z"/><path class="v6" d="M1586 521l9 2 8 3 9 3-6 4-8-2-9 6-8-9z"/><path class="v7" d="M1561 517l8 5 9-1 8 0-5 7-9-3-8 3-9 4zM1510 559l8-21 8-7-5 12-8 10-9 14z"/><path class="v8" d="M1526 531l9-7 9-2 8-4 9-1-6 15-8-7-9 9-8 4-9 5z"/><path class="v0" d="M1742 548l8-1 8 3 8-3 8-2 8-8 8-3 8 2 8-5 8-2-6-3-8 0-8 5-8-1-8 6-8 2-8 4-8 3-8 2-8 1z"/><path class="v1" d="M1693 554l8 5 8 2 8-7 8 2 9-9 8 1-6 0-8 2-8-7-9 11-8 6-8-3-8-4zM1395 658l9 1 8-5-5-10-9 7-9 8z"/><path class="v2" d="M1684 542l9 12-6-1-8-1zM1412 654l9-9 9-6 8-4 9-8 9-2 8-8-5 3-9 4-9 3-8 3-9 8-9 4-8 2z"/><path class="v3" d="M1676 535l8 7-5 10-9-6zM1464 617l9-8-6 3-8 8z"/><path class="v4" d="M1643 536l8-1 9 5 8-5 8 0-6 11-8-7-8 2-9-1-8-1zM1473 609l8-18-5 0-9 21z"/><path class="v5" d="M1626 531l8-3 9 8-6 3-8 0-9-2zM1481 591l9-13 8-10-5 8-9 9-8 6z"/><path class="v6" d="M1609 522l9 0 8 9-6 6-8-8-9-3zM1498 568l8-18-5 17-8 9z"/><path class="v7" d="M1592 518l9 0 8 4-6 4-8-3-9-2zM1506 550l9-14-5 23-9 8z"/><path class="v8" d="M1583 507l9 11-6 3-8 0zM1515 536l8-14-5 16-8 21z"/><path class="v9" d="M1523 522l9-8 8-9 9 1 9-2 8 0 9 1 8 2-5 14-9 1-8-5-9 1-8 4-9 2-9 7-8 7z"/><path class="v0" d="M1756 552l8-2 8-1 8-1 8-3 8-6 8-2 8 0 8-5-6-3-8 2-8 5-8-2-8 3-8 8-8 2-8 3-8-3z"/><path class="v1" d="M1707 553l8 2 8-3 8 1 8-4 8 4 9-1-6-5-8 1-8-1-9 9-8-2-8 7-8-2zM1400 668l9-5 9-5-6-4-8 5-9-1z"/><path class="v2" d="M1698 549l9 4-6 6-8-5zM1418 658l8-10 9-6 9-7 8-4-5-4-9 8-8 4-9 6-9 9z"/><path class="v3" d="M1682 541l8 3 8 5-5 5-9-12-8-7zM1452 631l9-6 9-11-6 3-8 8-9 2z"/><path class="v4" d="M1674 532l8 9-6-6-8 0zM1470 614l8-8 9-17-6 2-8 18-9 8z"/><path class="v5" d="M1648 526l9 7 8-2 9 1-6 3-8 5-9-5-8 1z"/><path class="v6" d="M1632 520l8 7 8-1-5 10-9-8-8 3zM1487 589l8-16-5 5-9 13z"/><path class="v7" d="M1623 510l9 10-6 11-8-9zM1495 573l8-17-5 12-8 10z"/><path class="v8" d="M1606 508l9 2 8 0-5 12-9 0-8-4zM1503 556l9-15-6 9-8 18z"/><path class="v9" d="M1589 497l9 7 8 4-5 10-9 0-9-11zM1512 541l8-20-5 15-9 14z"/><path class="v10" d="M1572 490l8 3 9 4-6 10-8-2-9-1zM1520 521l9-18-6 19-8 14z"/><path class="v11" d="M1554 482l9 2 9 6-6 14-8 0-9 2zM1529 503l8-10 9-9-6 21-8 9-9 8z"/><path class="v12" d="M1546 484l8-2-5 24-9-1z"/><path class="v0" d="M1761 554l8-1 9-4 8 2 8-2 8-4 8-1 8-7 8-5-6 0-8 5-8 0-8 2-8 6-8 3-8 1-8 1-8 2z"/><path class="v1" d="M1729 555l8 1 8-3 8 2 8-1-5-2-9 1-8-4-8 4-8-1zM1406 681l9-8 8-12-5-3-9 5-9 5z"/><path class="v2" d="M1712 551l9 3 8 1-6-3-8 3-8-2zM1423 661l9-12 9-2 8-3 9-10-6-3-8 4-9 7-9 6-8 10z"/><path class="v3" d="M1696 548l8-1 8 4-5 2-9-4-8-5zM1458 634l9-11-6 2-9 6z"/><path class="v4" d="M1688 536l8 12-6-4-8-3zM1467 623l8-11 9-11-6 5-8 8-9 11z"/><path class="v5" d="M1663 527l8 7 8-5 9 7-6 5-8-9-9-1-8 2zM1484 601l8-19-5 7-9 17z"/><path class="v6" d="M1646 520l8 3 9 4-6 6-9-7-8 1z"/><path class="v7" d="M1637 512l9 8-6 7-8-7zM1492 582l8-17-5 8-8 16z"/><path class="v8" d="M1629 505l8 7-5 8-9-10zM1500 565l9-17-6 8-8 17z"/><path class="v9" d="M1612 502l8 2 9 1-6 5-8 0-9-2zM1509 548l8-19-5 12-9 15z"/><path class="v10" d="M1603 497l9 5-6 6-8-4z"/><path class="v11" d="M1586 483l9 3 8 11-5 7-9-7-9-4zM1517 529l8-30-5 22-8 20z"/><path class="v12" d="M1577 469l9 14-6 10-8-3zM1525 499l9-14-5 18-9 18z"/><path class="v13" d="M1568 467l9 2-5 21-9-6zM1534 485l8-15-5 23-8 10z"/><path class="v14" d="M1542 470l9-8 9-5 8 10-5 17-9-2-8 2-9 9z"/><path class="v0" d="M1767 564l8-9 8 0 8-5 9-1 8-2 8-2 8-2 8-7-6-4-8 5-8 7-8 1-8 4-8 2-8-2-9 4-8 1zM1412 683l8-5-5-5-9 8z"/><path class="v1" d="M1743 563l8-4 8 5 8 0-6-10-8 1-8-2-8 3zM1420 678l9-8-6-9-8 12z"/><path class="v2" d="M1726 551l9 1 8 11-6-7-8-1-8-1zM1429 670l9-11 8-6 9-6-6-3-8 3-9 2-9 12z"/><path class="v3" d="M1710 545l8 2 8 4-5 3-9-3-8-4zM1455 647l9-13 8-11-5 0-9 11-9 10z"/><path class="v4" d="M1702 535l8 10-6 2-8 1zM1472 623l9-12-6 1-8 11z"/><path class="v5" d="M1685 527l8 2 9 6-6 13-8-12-9-7zM1481 611l8-14-5 4-9 11z"/><path class="v6" d="M1668 519l9 6 8 2-6 2-8 5-8-7zM1489 597l9-17-6 2-8 19z"/><path class="v7" d="M1660 509l8 10-5 8-9-4zM1498 580l8-23-6 8-8 17z"/><path class="v8" d="M1652 504l8 5-6 14-8-3z"/><path class="v9" d="M1635 496l8 3 9 5-6 16-9-8-8-7zM1506 557l8-20-5 11-9 17z"/><path class="v10" d="M1617 491l9 6 9-1-6 9-9-1-8-2zM1514 537l9-22-6 14-8 19z"/><path class="v11" d="M1609 483l8 8-5 11-9-5z"/><path class="v12" d="M1600 476l9 7-6 14-8-11zM1523 515l8-31-6 15-8 30z"/><path class="v13" d="M1591 464l9 12-5 10-9-3z"/><path class="v14" d="M1583 453l8 11-5 19-9-14zM1531 484l8-23-5 24-9 14z"/><path class="v15" d="M1574 446l9 7-6 16-9-2zM1539 461l9-16-6 25-8 15z"/><path class="v16" d="M1548 445l8-11 9-1 9 13-6 21-8-10-9 5-9 8z"/><path class="v0" d="M1805 550l8 4 8-2 8-3 9-10-6-3-8 7-8 2-8 2-8 2zM1417 686l9-5-6-3-8 5z"/><path class="v1" d="M1749 560l8-1 8 2 8-1 8-5 8 0 8 0 8-5-5-1-9 1-8 5-8 0-8 9-8 0-8-5-8 4zM1426 681l9-7 8-12-5-3-9 11-9 8z"/><path class="v2" d="M1741 551l8 9-6 3-8-11zM1443 662l9-9 8-11-5 5-9 6-8 6z"/><path class="v3" d="M1724 543l8 6 9 2-6 1-9-1-8-4zM1460 642l9-8 9-7-6-4-8 11-9 13z"/><path class="v4" d="M1708 538l8 6 8-1-6 4-8-2-8-10zM1478 627l8-18-5 2-9 12z"/><path class="v5" d="M1699 532l9 6-6-3-9-6zM1486 609l9-10-6-2-8 14z"/><path class="v6" d="M1691 519l8 13-6-3-8-2z"/><path class="v7" d="M1674 510l9 1 8 8-6 8-8-2-9-6zM1495 599l8-23-5 4-9 17z"/><path class="v8" d="M1666 501l8 9-6 9-8-10zM1503 576l8-22-5 3-8 23z"/><path class="v9" d="M1657 490l9 11-6 8-8-5z"/><path class="v10" d="M1649 483l8 7-5 14-9-5zM1511 554l9-19-6 2-8 20z"/><path class="v11" d="M1623 480l9 7 8-3 9-1-6 16-8-3-9 1-9-6z"/><path class="v13" d="M1614 463l9 17-6 11-8-8z"/><path class="v14" d="M1606 451l8 12-5 20-9-7zM1528 502l8-32-5 14-8 31z"/><path class="v15" d="M1597 442l9 9-6 25-9-12z"/><path class="v16" d="M1588 434l9 8-6 22-8-11zM1536 470l8-36-5 27-8 23z"/><path class="v17" d="M1579 418l9 16-5 19-9-7z"/><path class="v18" d="M1570 407l9 11-5 28-9-13zM1544 434l9-15-5 26-9 16z"/><path class="v19" d="M1553 419l9-14 8 2-5 26-9 1-8 11z"/><path class="v12" d="M1520 535l8-33-5 13-9 22z"/><path class="v0" d="M1819 551l8 2 8-2 8-4-5-8-9 10-8 3-8 2z"/><path class="v1" d="M1763 561l8 4 8-4 8-4 8 0 8-3 8-1 8-2-6 3-8-4-8 5-8 0-8 0-8 5-8 1-8-2zM1423 686l8-8 9-7-5 3-9 7-9 5z"/><path class="v2" d="M1746 555l9 5 8 1-6-2-8 1-8-9zM1440 671l9-10 8-5-5-3-9 9-8 12z"/><path class="v3" d="M1730 548l8 6 8 1-5-4-9-2-8-6zM1457 656l9-6 9-13-6-3-9 8-8 11z"/><path class="v4" d="M1722 546l8 2-6-5-8 1zM1475 637l8-14-5 4-9 7z"/><path class="v5" d="M1713 537l9 9-6-2-8-6zM1483 623l9-10 8-13-5-1-9 10-8 18z"/><path class="v6" d="M1705 527l8 10-5 1-9-6z"/><path class="v7" d="M1697 518l8 9-6 5-8-13zM1500 600l9-27-6 3-8 23z"/><path class="v8" d="M1688 508l9 10-6 1-8-8zM1509 573l8-16-6-3-8 22z"/><path class="v9" d="M1680 499l8 9-5 3-9-1z"/><path class="v10" d="M1672 487l8 12-6 11-8-9zM1517 557l8-29-5 7-9 19z"/><path class="v11" d="M1663 476l9 11-6 14-9-11z"/><path class="v12" d="M1637 469l9 0 9 5 8 2-6 14-8-7-9 1-8 3z"/><path class="v13" d="M1629 463l8 6-5 18-9-7zM1525 528l9-38-6 12-8 33z"/><path class="v14" d="M1620 452l9 11-6 17-9-17z"/><path class="v16" d="M1603 433l8 2 9 17-6 11-8-12-9-9z"/><path class="v18" d="M1594 412l9 21-6 9-9-8zM1542 457l8-40-6 17-8 36z"/><path class="v19" d="M1585 395l9 17-6 22-9-16z"/><path class="v21" d="M1559 396l8-15 9-1 9 15-6 23-9-11-8-2-9 14z"/><path class="v20" d="M1550 417l9-21-6 23-9 15z"/><path class="v15" d="M1534 490l8-33-6 13-8 32z"/><path class="v1" d="M1777 562l8-1 8-6 8-3 8 1 8 3 8 0 8-4 8-5 8-1-6 1-8 4-8 2-8-2-8 2-8 1-8 3-8 0-8 4-8 4zM1428 697l9-10 9-7-6-9-9 7-8 8z"/><path class="v2" d="M1760 563l9-3 8 2-6 3-8-4-8-1zM1446 680l9-6 8-9-6-9-8 5-9 10z"/><path class="v3" d="M1744 547l8 3 8 13-5-3-9-5-8-1zM1463 665l9-15 8-11-5-2-9 13-9 6z"/><path class="v4" d="M1728 543l8 3 8 1-6 7-8-6-8-2zM1480 639l9-7-6-9-8 14z"/><path class="v5" d="M1719 536l9 7-6 3-9-9zM1489 632l8-19-5 0-9 10z"/><path class="v6" d="M1711 520l8 16-6 1-8-10zM1497 613l9-15-6 2-8 13z"/><path class="v8" d="M1703 503l8 17-6 7-8-9z"/><path class="v9" d="M1694 490l9 13-6 15-9-10zM1514 574l9-21-6 4-8 16z"/><path class="v11" d="M1686 474l8 16-6 18-8-9zM1523 553l8-34-6 9-8 29z"/><path class="v12" d="M1677 464l9 10-6 25-8-12z"/><path class="v13" d="M1660 456l9 0 8 8-5 23-9-11-8-2z"/><path class="v14" d="M1635 450l8 0 9 3 8 3-5 18-9-5-9 0-8-6zM1531 519l8-37-5 8-9 38z"/><path class="v15" d="M1626 445l9 5-6 13-9-11z"/><path class="v17" d="M1617 427l9 18-6 7-9-17zM1539 482l8-36-5 11-8 33z"/><path class="v18" d="M1608 413l9 14-6 8-8-2z"/><path class="v20" d="M1599 392l9 21-5 20-9-21z"/><path class="v21" d="M1590 372l9 20-5 20-9-17z"/><path class="v23" d="M1564 380l9-17 9-4 8 13-5 23-9-15-9 1-8 15z"/><path class="v22" d="M1556 408l8-28-5 16-9 21z"/><path class="v19" d="M1547 446l9-38-6 9-8 40z"/><path class="v7" d="M1506 598l8-24-5-1-9 27z"/><path class="v1" d="M1791 564l8 4 8-1 8-8 8 4 8-5 8-5 8-3 8-9-6 5-8 1-8 5-8 4-8 0-8-3-8-1-8 3-8 6zM1434 700l9-9 8-9 9-7-5-1-9 6-9 7-9 10z"/><path class="v2" d="M1775 560l8-1 8 5-6-3-8 1-8-2zM1460 675l9-9 9-4-6-12-9 15-8 9z"/><path class="v3" d="M1758 545l8 10 9 5-6 0-9 3-8-13zM1478 662l8-14-6-9-8 11z"/><path class="v4" d="M1742 542l8 2 8 1-6 5-8-3-8-1zM1486 648l9-16-6 0-9 7z"/><path class="v5" d="M1733 541l9 1-6 4-8-3zM1495 632l8-17-6-2-8 19z"/><path class="v6" d="M1725 528l8 13-5 2-9-7zM1503 615l9-13-6-4-9 15z"/><path class="v7" d="M1717 509l8 19-6 8-8-16zM1512 602l8-19-6-9-8 24z"/><path class="v9" d="M1709 486l8 23-6 11-8-17zM1520 583l8-29-5-1-9 21z"/><path class="v11" d="M1700 464l9 22-6 17-9-13z"/><path class="v13" d="M1692 443l8 21-6 26-8-16z"/><path class="v14" d="M1683 438l9 5-6 31-9-10z"/><path class="v15" d="M1675 430l8 8-6 26-8-8zM1537 517l8-40-6 5-8 37z"/><path class="v16" d="M1632 437l8 6 9-5 9-2 8-5 9-1-6 26-9 0-8-3-9-3-8 0-9-5z"/><path class="v17" d="M1623 424l9 13-6 8-9-18z"/><path class="v19" d="M1614 403l9 21-6 3-9-14z"/><path class="v21" d="M1605 387l9 16-6 10-9-21zM1553 431l8-38-5 15-9 38z"/><path class="v23" d="M1596 363l9 24-6 5-9-20zM1561 393l9-24-6 11-8 28z"/><path class="v24" d="M1587 352l9 11-6 9-8-13zM1570 369l8-20-5 14-9 17z"/><path class="v25" d="M1578 349l9 3-5 7-9 4z"/><path class="v18" d="M1545 477l8-46-6 15-8 36z"/><path class="v12" d="M1528 554l9-37-6 2-8 34z"/><path class="v1" d="M1797 573l8-8 8 2 8-5 8 1 8-3 8-2 8 4 8-13-6-8-8 9-8 3-8 5-8 5-8-4-8 8-8 1-8-4zM1440 706l8-8 9-7 9-9-6-7-9 7-8 9-9 9z"/><path class="v2" d="M1789 565l8 8-6-9-8-5zM1466 682l9-8 8-4-5-8-9 4-9 9z"/><path class="v3" d="M1781 553l8 12-6-6-8 1zM1483 670l9-12-6-10-8 14z"/><path class="v4" d="M1772 540l9 13-6 7-9-5zM1492 658l8-18-5-8-9 16z"/><path class="v5" d="M1748 540l8-5 8-6 8 11-6 15-8-10-8-1-8-2zM1500 640l9-25-6 0-8 17z"/><path class="v6" d="M1739 535l9 5-6 2-9-1zM1509 615l8-17-5 4-9 13z"/><path class="v7" d="M1731 518l8 17-6 6-8-13z"/><path class="v9" d="M1723 494l8 24-6 10-8-19zM1526 582l8-26-6-2-8 29z"/><path class="v11" d="M1715 466l8 28-6 15-8-23z"/><path class="v14" d="M1706 440l9 26-6 20-9-22z"/><path class="v16" d="M1698 412l8 28-6 24-8-21z"/><path class="v17" d="M1689 403l9 9-6 31-9-5zM1638 437l8-3 9-7 8-9-5 18-9 2-9 5-8-6z"/><path class="v18" d="M1663 418l9-13 9-4 8 2-6 35-8-8-9 1-8 5zM1629 421l9 16-6 0-9-13zM1551 479l8-48-6 0-8 46z"/><path class="v20" d="M1620 403l9 18-6 3-9-21z"/><path class="v21" d="M1611 383l9 20-6 0-9-16zM1559 431l8-35-6-3-8 38z"/><path class="v24" d="M1602 357l9 26-6 4-9-24z"/><path class="v25" d="M1576 368l8-20 9 2 9 7-6 6-9-11-9-3-8 20z"/><path class="v23" d="M1567 396l9-28-6 1-9 24z"/><path class="v15" d="M1542 522l9-43-6-2-8 40z"/><path class="v12" d="M1534 556l8-34-5-5-9 37z"/><path class="v8" d="M1517 598l9-16-6 1-8 19z"/><path class="v1" d="M1803 574l8-3 8 0 8-3 8 2 8-4 8-9 8 0 8-4-6-4-8 13-8-4-8 2-8 3-8-1-8 5-8-2-8 8zM1454 706l9-9 9 0 8-13-5-10-9 8-9 9-9 7z"/><path class="v2" d="M1795 565l8 9-6-1-8-8zM1480 684l9-13-6-1-8 4z"/><path class="v3" d="M1787 553l8 12-6 0-8-12zM1489 671l9-14-6 1-9 12z"/><path class="v5" d="M1778 531l9 22-6 0-9-13zM1506 647l9-22-6-10-9 25z"/><path class="v7" d="M1762 525l8-12 8 18-6 9-8-11-8 6zM1745 523l9 8-6 9-9-5z"/><path class="v6" d="M1754 531l8-6-6 10-8 5zM1515 625l8-15-6-12-8 17z"/><path class="v8" d="M1737 503l8 20-6 12-8-17zM1523 610l8-27-5-1-9 16z"/><path class="v10" d="M1729 479l8 24-6 15-8-24zM1531 583l9-25-6-2-8 26z"/><path class="v13" d="M1721 446l8 33-6 15-8-28z"/><path class="v16" d="M1712 414l9 32-6 20-9-26z"/><path class="v19" d="M1704 379l8 35-6 26-8-28zM1661 418l8-21-6 21-8 9z"/><path class="v21" d="M1678 379l9-9 8-5 9 14-6 33-9-9-8-2-9 4zM1617 392l9 15-6-4-9-20zM1565 444l8-40-6-8-8 35z"/><path class="v20" d="M1669 397l9-18-6 26-9 13zM1626 407l9 12-6 2-9-18z"/><path class="v18" d="M1652 431l9-13-6 9-9 7zM1635 419l9 12-6 6-9-16zM1557 487l8-43-6-13-8 48z"/><path class="v17" d="M1644 431l8 0-6 3-8 3z"/><path class="v24" d="M1608 364l9 28-6-9-9-26zM1573 404l9-33-6-3-9 28z"/><path class="v25" d="M1599 350l9 14-6-7-9-7zM1582 371l8-23-6 0-8 20z"/><path class="v26" d="M1590 348l9 2-6 0-9-2z"/><path class="v15" d="M1548 528l9-41-6-8-9 43z"/><path class="v12" d="M1540 558l8-30-6-6-8 34z"/><path class="v4" d="M1498 657l8-10-6-7-8 18z"/><path class="v0" d="M1445 711l9-5-6-8-8 8z"/><path class="v1" d="M1817 580l8-2 8-5 8-1 8-5 8-5 8 1 8-8-6-2-8 4-8 0-8 9-8 4-8-2-8 3-8 0zM1460 711l9-8 8-1 9-12-6-6-8 13-9 0-9 9z"/><path class="v2" d="M1801 570l8 1 8 9-6-9-8 3-8-9zM1486 690l9-16-6-3-9 13z"/><path class="v4" d="M1793 542l8 28-6-5-8-12z"/><path class="v7" d="M1785 511l8 31-6 11-9-22zM1751 525l9 0-6 6-9-8z"/><path class="v9" d="M1768 502l9-15 8 24-7 20-8-18-8 12zM1743 504l8 21-6-2-8-20zM1537 592l9-20-6-14-9 25z"/><path class="v8" d="M1760 525l8-23-6 23-8 6zM1529 616l8-24-6-9-8 27z"/><path class="v12" d="M1735 471l8 33-6-1-8-24zM1546 572l8-35-6-9-8 30z"/><path class="v15" d="M1727 426l8 45-6 8-8-33zM1554 537l8-41-5-9-9 41z"/><path class="v19" d="M1718 384l9 42-6 20-9-32zM1658 425l9-11-6 4-9 13zM1641 427l8 7-5-3-9-12z"/><path class="v22" d="M1710 346l8 38-6 30-8-35zM1675 383l9-31-6 27-9 18z"/><path class="v24" d="M1684 352l9-23 8-4 9 21-6 33-9-14-8 5-9 9z"/><path class="v20" d="M1667 414l8-31-6 14-8 21zM1632 415l9 12-6-8-9-12z"/><path class="v18" d="M1649 434l9-9-6 6-8 0zM1562 496l9-36-6-16-8 43z"/><path class="v21" d="M1623 402l9 13-6-8-9-15zM1571 460l8-41-6-15-8 40z"/><path class="v23" d="M1614 379l9 23-6-10-9-28zM1579 419l9-35-6-13-9 33z"/><path class="v25" d="M1588 384l8-16 9-3 9 14-6-15-9-14-9-2-8 23z"/><path class="v6" d="M1520 634l9-18-6-6-8 15z"/><path class="v5" d="M1512 656l8-22-5-9-9 22z"/><path class="v3" d="M1495 674l8-11 9-7-6-9-8 10-9 14z"/><path class="v0" d="M1451 715l9-4-6-5-9 5z"/><path class="v1" d="M1815 581l8 2 8-1 8 0 8-8 8 1 8-2 8-3 8-2-6-13-8 8-8-1-8 5-8 5-8 1-8 5-8 2-8-9zM1474 708l9-4 9-8-6-6-9 12-8 1z"/><path class="v3" d="M1807 562l8 19-6-10-8-1zM1500 679l9-5 9-16-6-2-9 7-8 11z"/><path class="v5" d="M1799 531l8 31-6 8-8-28z"/><path class="v9" d="M1791 482l8 49-6 11-8-31zM1749 502l8 23-6 0-8-21zM1543 605l9-22-6-11-9 20z"/><path class="v11" d="M1783 459l8 23-6 29-8-24zM1552 583l8-29-6-17-8 35z"/><path class="v12" d="M1774 478l9-19-6 28-9 15zM1741 463l8 39-6 2-8-33z"/><path class="v10" d="M1766 519l8-41-6 24-8 23z"/><path class="v8" d="M1757 525l9-6-6 6-9 0z"/><path class="v17" d="M1733 411l8 52-6 8-8-45zM1568 506l9-35-6-11-9 36z"/><path class="v21" d="M1724 358l9 53-6 15-9-42zM1673 409l8-35-6 9-8 31zM1629 415l9 12-6-12-9-13z"/><path class="v25" d="M1716 307l8 51-6 26-8-38z"/><path class="v28" d="M1699 294l8-12 9 25-6 39-9-21-8 4z"/><path class="v27" d="M1690 334l9-40-6 35-9 23z"/><path class="v24" d="M1681 374l9-40-6 18-9 31zM1594 415l9-19 8-3 9 6-6-20-9-14-9 3-8 16z"/><path class="v19" d="M1664 426l9-17-6 5-9 11zM1638 427l9 11-6-11-9-12z"/><path class="v18" d="M1647 438l8 0 9-12-6-1-9 9-8-7z"/><path class="v22" d="M1620 399l9 16-6-13-9-23zM1585 436l9-21-6-31-9 35z"/><path class="v20" d="M1577 471l8-35-6-17-8 41z"/><path class="v14" d="M1560 554l8-48-6-10-8 41z"/><path class="v7" d="M1535 625l8-20-6-13-8 24z"/><path class="v6" d="M1526 644l9-19-6-9-9 18z"/><path class="v4" d="M1518 658l8-14-6-10-8 22z"/><path class="v2" d="M1492 696l8-17-5-5-9 16z"/><path class="v0" d="M1457 719l8-7 9-4-5-5-9 8-9 4z"/><path class="v0" d="M1877 576l8-2-6-6-8 2z"/><path class="v1" d="M1821 587l8-3 8-3 8 3 8-7 8 2 8-4 8 1-6-6-8 3-8 2-8-1-8 8-8 0-8 1-8-2zM1462 711l9-2 9-3 9-1 9-8-6-1-9 8-9 4-9 4-8 7z"/><path class="v3" d="M1813 560l8 27-6-6-8-19zM1515 675l9-8-6-9-9 16z"/><path class="v7" d="M1805 513l8 47-6 2-8-31zM1541 638l8-23-6-10-8 20z"/><path class="v11" d="M1797 451l8 62-6 18-8-49z"/><path class="v14" d="M1781 460l8-33 8 24-6 31-8-23-9 19z"/><path class="v12" d="M1772 509l9-49-7 18-8 41z"/><path class="v9" d="M1763 525l9-16-6 10-9 6z"/><path class="v10" d="M1755 505l8 20-6 0-8-23zM1558 597l8-27-6-16-8 29z"/><path class="v13" d="M1747 463l8 42-6-3-8-39zM1566 570l9-38-7-26-8 48z"/><path class="v17" d="M1739 411l8 52-6 0-8-52z"/><path class="v22" d="M1731 344l8 67-6 0-9-53zM1679 411l8-39-6 2-8 35zM1600 432l9-11 9 2 8 1-6-25-9-6-8 3-9 19z"/><path class="v27" d="M1722 286l9 58-7 14-8-51z"/><path class="v30" d="M1705 285l8-24 9 25-6 21-9-25-8 12z"/><path class="v28" d="M1696 328l9-43-6 9-9 40z"/><path class="v25" d="M1687 372l9-44-6 6-9 40z"/><path class="v19" d="M1670 436l9-25-6-2-9 17zM1644 446l9 5-6-13-9-11zM1583 499l8-33-6-30-8 35z"/><path class="v18" d="M1653 451l8 3 9-18-6-10-9 12-8 0z"/><path class="v20" d="M1635 432l9 14-6-19-9-12zM1591 466l9-34-6-17-9 21z"/><path class="v21" d="M1626 424l9 8-6-17-9-16z"/><path class="v16" d="M1575 532l8-33-6-28-9 35z"/><path class="v8" d="M1549 615l9-18-6-14-9 22z"/><path class="v5" d="M1532 657l9-19-6-13-9 19z"/><path class="v4" d="M1524 667l8-10-6-13-8 14z"/><path class="v2" d="M1498 697l8-16 9-6-6-1-9 5-8 17z"/><path class="v0" d="M1883 581l8-4-6-3-8 2z"/><path class="v1" d="M1835 584l8 5 8-1 8-4 8-3 8-5 8 5-6-5-8-1-8 4-8-2-8 7-8-3-8 3zM1468 713l9 0 9-4 8-6 9-1-5-5-9 8-9 1-9 3-9 2z"/><path class="v2" d="M1827 575l8 9-6 0-8 3zM1503 702l9-4-6-17-8 16z"/><path class="v4" d="M1819 558l8 17-6 12-8-27zM1538 665l9-9-6-18-9 19z"/><path class="v8" d="M1811 504l8 54-6 2-8-47z"/><path class="v13" d="M1804 436l7 68-6 9-8-62zM1778 503l9-58-6 15-9 49zM1753 461l8 45-6-1-8-42z"/><path class="v16" d="M1787 445l9-32 8 23-7 15-8-24-8 33z"/><path class="v10" d="M1761 506l8 20 9-23-6 6-9 16-8-20z"/><path class="v17" d="M1745 416l8 45-6 2-8-52zM1650 466l9 3 9 0 8-14-6-19-9 18-8-3-9-5zM1589 523l9-28-7-29-8 33z"/><path class="v22" d="M1737 355l8 61-6-5-8-67zM1685 426l8-30-6-24-8 39z"/><path class="v27" d="M1728 297l9 58-6-11-9-58z"/><path class="v30" d="M1711 298l9-15 8 14-6-11-9-25-8 24z"/><path class="v28" d="M1702 348l9-50-6-13-9 43z"/><path class="v25" d="M1693 396l9-48-6-20-9 44z"/><path class="v19" d="M1676 455l9-29-6-15-9 25zM1633 456l8 5 9 5-6-20-9-14-9-8zM1598 495l8-26-6-37-9 34z"/><path class="v20" d="M1606 469l9-14 9-8 9 9-7-32-8-1-9-2-9 11z"/><path class="v14" d="M1581 551l8-28-6-24-8 33z"/><path class="v12" d="M1572 585l9-34-6-19-9 38z"/><path class="v9" d="M1564 608l8-23-6-15-8 27z"/><path class="v7" d="M1555 637l9-29-6-11-9 18z"/><path class="v6" d="M1547 656l8-19-6-22-8 23z"/><path class="v3" d="M1512 698l9-21 8 0 9-12-6-8-8 10-9 8-9 6z"/><path class="v1" d="M1849 585l8 3 8 0 8-2 8 1 8 0 8-9-6-1-8 4-8-5-8 5-8 3-8 4-8 1zM1474 721l8-8 9 4 9-1 9-8 9-9-6-1-9 4-9 1-8 6-9 4-9 0z"/><path class="v2" d="M1833 575l8 11 8-1-6 4-8-5-8-9zM1518 699l9-11-6-11-9 21z"/><path class="v4" d="M1825 554l8 21-6 0-8-17zM1544 668l9-10-6-2-9 9z"/><path class="v9" d="M1817 496l8 58-6 4-8-54z"/><path class="v14" d="M1810 427l7 69-6 8-7-68z"/><path class="v18" d="M1793 431l9-33 8 29-6 9-8-23-9 32zM1682 475l9-29-6-20-9 29zM1613 502l8-6 9-14 9 1-6-27-9-9-9 8-9 14z"/><path class="v15" d="M1784 496l9-65-6 14-9 58zM1595 547l9-23-6-29-9 28z"/><path class="v10" d="M1767 520l9 7 8-31-6 7-9 23-8-20z"/><path class="v13" d="M1759 484l8 36-6-14-8-45zM1587 569l8-22-6-24-8 28z"/><path class="v17" d="M1751 442l8 42-6-23-8-45zM1639 483l8 2 9 9-6-28-9-5-8-5zM1604 524l9-22-7-33-8 26z"/><path class="v22" d="M1743 387l8 55-6-26-8-61z"/><path class="v26" d="M1734 342l9 45-6-32-9-58z"/><path class="v28" d="M1726 326l8 16-6-45-8-14z"/><path class="v29" d="M1717 335l9-9-6-43-9 15z"/><path class="v27" d="M1708 370l9-35-6-37-9 50z"/><path class="v24" d="M1699 407l9-37-6-22-9 48z"/><path class="v20" d="M1691 446l8-39-6-11-8 30z"/><path class="v16" d="M1656 494l9-1 9-6 8-12-6-20-8 14-9 0-9-3z"/><path class="v11" d="M1578 597l9-28-6-18-9 34z"/><path class="v8" d="M1570 615l8-18-6-12-8 23z"/><path class="v7" d="M1561 642l9-27-6-7-9 29z"/><path class="v5" d="M1553 658l8-16-6-5-8 19z"/><path class="v3" d="M1527 688l8-7 9-13-6-3-9 12-8 0z"/><path class="v1" d="M1855 589l8-1 8 1 8-1 8 1 8-4 8-2-6-5-8 9-8 0-8-1-8 2-8 0-8-3zM1479 728l9-5 9-1 9-5 9-2 9-12-6-4-9 9-9 8-9 1-9-4-8 8z"/><path class="v2" d="M1839 585l8 7 8-3-6-4-8 1-8-11zM1524 703l8-14-5-1-9 11z"/><path class="v4" d="M1831 556l8 29-6-10-8-21zM1550 674l8-14-5-2-9 10z"/><path class="v9" d="M1824 501l7 55-6-2-8-58zM1773 533l9 4-6-10-9-7zM1584 615l9-21-6-25-9 28z"/><path class="v15" d="M1816 425l8 76-7-5-7-69zM1790 502l9-75-6 4-9 65zM1757 457l8 43-6-16-8-42zM1680 507l8-11-6-21-8 12zM1645 511l9 2 8 10-6-29-9-9-8-2zM1619 537l8-17-6-24-8 6z"/><path class="v18" d="M1799 427l9-28 8 26-6 2-8-29-9 33z"/><path class="v10" d="M1782 537l8-35-6-6-8 31z"/><path class="v12" d="M1765 500l8 33-6-13-8-36z"/><path class="v19" d="M1749 422l8 35-6-15-8-55zM1697 475l9-33-7-35-8 39z"/><path class="v23" d="M1740 391l9 31-6-35-9-45z"/><path class="v25" d="M1723 388l9-9 8 12-6-49-8-16-9 9z"/><path class="v24" d="M1714 414l9-26-6-53-9 35z"/><path class="v22" d="M1706 442l8-28-6-44-9 37z"/><path class="v17" d="M1688 496l9-21-6-29-9 29z"/><path class="v14" d="M1662 523l9-5 9-11-6-20-9 6-9 1zM1610 554l9-17-6-35-9 22z"/><path class="v16" d="M1627 520l9 0 9-9-6-28-9-1-9 14z"/><path class="v13" d="M1601 570l9-16-6-30-9 23z"/><path class="v11" d="M1593 594l8-24-6-23-8 22z"/><path class="v8" d="M1576 628l8-13-6-18-8 18z"/><path class="v7" d="M1567 645l9-17-6-13-9 27z"/><path class="v5" d="M1558 660l9-15-6-3-8 16z"/><path class="v3" d="M1532 689l9-3 9-12-6-6-9 13-8 7z"/><path class="v1" d="M1869 594l8 0 8 0 8 0 8-1 9-6-7-4-8 2-8 4-8-1-8 1-8-1zM1485 728l9 3 9-4 9-9 9-5 9-2-6-8-9 12-9 2-9 5-9 1-9 5z"/><path class="v2" d="M1845 593l8-2 8 0 8 3-6-6-8 1-8 3-8-7zM1530 711l8-10 9-9-6-6-9 3-8 14z"/><path class="v4" d="M1837 569l8 24-6-8-8-29zM1556 681l8-8-6-13-8 14z"/><path class="v9" d="M1830 512l7 57-6-13-7-55z"/><path class="v15" d="M1822 439l8 73-6-11-8-76zM1796 518l9-64-6-27-9 75zM1694 517l9-16-6-26-9 21z"/><path class="v18" d="M1805 454l9-43 8 28-6-14-8-26-9 28z"/><path class="v10" d="M1788 549l8-31-6-16-8 35zM1599 607l9-7-7-30-8 24z"/><path class="v8" d="M1779 546l9 3-6-12-9-4zM1590 623l9-16-6-13-9 21z"/><path class="v11" d="M1771 523l8 23-6-13-8-33zM1608 600l8-16-6-30-9 16z"/><path class="v14" d="M1763 491l8 32-6-23-8-43zM1686 525l8-8-6-21-8 11zM1642 544l9-6 9 1-6-26-9-2-9 9z"/><path class="v17" d="M1754 471l9 20-6-34-8-35zM1703 501l9-22-6-37-9 33z"/><path class="v20" d="M1746 447l8 24-5-49-9-31z"/><path class="v21" d="M1720 459l9-19 8-4 9 11-6-56-8-12-9 9-9 26z"/><path class="v19" d="M1712 479l8-20-6-45-8 28z"/><path class="v13" d="M1677 539l9-14-6-18-9 11zM1660 539l8 5-6-21-8-10zM1625 571l9-16 8-11-6-24-9 0-8 17z"/><path class="v12" d="M1668 544l9-5-6-21-9 5zM1616 584l9-13-6-34-9 17z"/><path class="v7" d="M1582 646l8-23-6-8-8 13z"/><path class="v6" d="M1573 655l9-9-6-18-9 17z"/><path class="v5" d="M1564 673l9-18-6-10-9 15z"/><path class="v3" d="M1547 692l9-11-6-7-9 12z"/><path class="v1" d="M1875 598l8-2 8 4 8-4 9-5 8-5-6 1-9 6-8 1-8 0-8 0-8 0zM1491 740l9-7 9 0 9-8 8-8 9-4-5-2-9 2-9 5-9 9-9 4-9-3z"/><path class="v2" d="M1851 596l8-2 8-3 8 7-6-4-8-3-8 0-8 2zM1535 713l9-6 9-1-6-14-9 9-8 10z"/><path class="v4" d="M1843 578l8 18-6-3-8-24zM1570 685l9-17-6-13-9 18z"/><path class="v8" d="M1835 529l8 49-6-9-7-57zM1785 565l8 3-5-19-9-3zM1605 631l9-11-6-20-9 7z"/><path class="v14" d="M1828 468l7 61-5-17-8-73zM1760 512l9 19-6-40-9-20z"/><path class="v17" d="M1811 481l9-39 8 26-6-29-8-28-9 43zM1726 501l9-14 8-2 9 13-6-51-9-11-8 4-9 19z"/><path class="v13" d="M1802 538l9-57-6-27-9 64zM1700 543l9-19-6-23-9 16z"/><path class="v9" d="M1793 568l9-30-6-20-8 31zM1777 551l8 14-6-19-8-23zM1614 620l8-13-6-23-8 16z"/><path class="v12" d="M1769 531l8 20-6-28-8-32zM1683 558l9-3 8-12-6-26-8 8-9 14zM1648 570l9-8 9 5-6-28-9-1-9 6z"/><path class="v16" d="M1752 498l8 14-6-41-8-24zM1718 512l8-11-6-42-8 20z"/><path class="v15" d="M1709 524l9-12-6-33-9 22z"/><path class="v11" d="M1666 567l8-7 9-2-6-19-9 5-8-5zM1631 593l9-11 8-12-6-26-8 11-9 16z"/><path class="v10" d="M1622 607l9-14-6-22-9 13z"/><path class="v7" d="M1596 641l9-10-6-24-9 16z"/><path class="v6" d="M1588 659l8-18-6-18-8 23z"/><path class="v5" d="M1579 668l9-9-6-13-9 9z"/><path class="v3" d="M1553 706l9-15 8-6-6-12-8 8-9 11z"/><path class="v1" d="M1881 605l8 3 8-1 9-6 8-1 8-7-6-7-8 5-9 5-8 4-8-4-8 2zM1497 747l9-6 9-1 9-7 8-8 9 0-6-12-9 4-8 8-9 8-9 0-9 7z"/><path class="v2" d="M1857 599l8 2 8 4 8 0-6-7-8-7-8 3-8 2zM1541 725l9-12 9-7 9-6-6-9-9 15-9 1-9 6z"/><path class="v3" d="M1849 584l8 15-6-3-8-18zM1568 700l8-11-6-4-8 6z"/><path class="v7" d="M1841 549l8 35-6-6-8-49zM1783 575l8 5-6-15-8-14zM1620 640l8-19-6-14-8 13z"/><path class="v12" d="M1834 502l7 47-6-20-7-61zM1758 536l8 14-6-38-8-14zM1715 554l9-8-6-34-9 12z"/><path class="v15" d="M1817 511l9-32 8 23-6-34-8-26-9 39z"/><path class="v11" d="M1808 557l9-46-6-30-9 57zM1766 550l8 16-5-35-9-19zM1706 566l9-12-6-30-9 19z"/><path class="v8" d="M1799 585l9-28-6-19-9 30zM1628 621l9-8-6-20-9 14z"/><path class="v6" d="M1791 580l8 5-6-17-8-3zM1602 654l9-5 9-9-6-20-9 11-9 10z"/><path class="v9" d="M1774 566l9 9-6-24-8-20zM1637 613l9-13-6-18-9 11z"/><path class="v13" d="M1749 528l9 8-6-38-9-13zM1724 546l8-10-6-35-8 11z"/><path class="v14" d="M1732 536l9-3 8-5-6-43-8 2-9 14z"/><path class="v10" d="M1646 600l8-9 9-8 9-5 8-3 9 0 9-6 8-3-6-23-8 12-9 3-9 2-8 7-9-5-9 8-8 12z"/><path class="v5" d="M1594 666l8-12-6-13-8 18z"/><path class="v4" d="M1576 689l9-12 9-11-6-7-9 9-9 17z"/><path class="v1" d="M1903 613l9-10 8-1 8 1-6-10-8 7-8 1-9 6zM1879 609l8 5 8 0-6-6-8-3-8 0zM1521 747l9-3 8-16 9-1 9-10-6-4-9 12-9 0-8 8-9 7z"/><path class="v0" d="M1895 614l8-1-6-6-8 1zM1503 751l9-2 9-2-6-7-9 1-9 6z"/><path class="v2" d="M1863 611l8-6 8 4-6-4-8-4-8-2zM1556 717l9 0 8-11-5-6-9 6-9 7z"/><path class="v3" d="M1855 597l8 14-6-12-8-15zM1573 706l9-7 9-16-6-6-9 12-8 11z"/><path class="v6" d="M1847 573l8 24-6-13-8-35zM1805 598l9-16-6-25-9 28zM1789 591l8 8-6-19-8-5zM1626 651l8-16-6-14-8 19z"/><path class="v10" d="M1840 532l7 41-6-24-7-47zM1755 571l9-1 8 2-6-22-8-14-9-8zM1721 581l9-10 8-6-6-29-8 10-9 8z"/><path class="v12" d="M1823 542l8-29 9 19-6-30-8-23-9 32z"/><path class="v9" d="M1814 582l9-40-6-31-9 46zM1661 613l8-9 9-10 9-2 8 2 9-7 8 1 9-7-6-27-9 12-8 3-9 6-9 0-8 3-9 5-9 8z"/><path class="v5" d="M1797 599l8-1-6-13-8-5zM1600 674l8-9 9-3 9-11-6-11-9 9-9 5-8 12z"/><path class="v7" d="M1780 584l9 7-6-16-9-9zM1634 635l9-1-6-21-9 8z"/><path class="v8" d="M1772 572l8 12-6-18-8-16zM1643 634l9-13 9-8-7-22-8 9-9 13z"/><path class="v11" d="M1738 565l9 1 8 5-6-43-8 5-9 3z"/><path class="v4" d="M1591 683l9-9-6-8-9 11z"/><path class="v0" d="M1926 612l8-4-6-5-8-1zM1893 622l9-5 8 1 8-3-6-12-9 10-8 1-8 0zM1518 757l9-3 8-4-5-6-9 3-9 2z"/><path class="v1" d="M1918 615l8-3-6-10-8 1zM1885 615l8 7-6-8-8-5zM1535 750l9-11 9-5 9-5-6-12-9 10-9 1-8 16zM1508 748l10 9-6-8-9 2z"/><path class="v2" d="M1869 613l8 0 8 2-6-6-8-4-8 6zM1562 729l9-7 9-4 8-9-6-10-9 7-8 11-9 0z"/><path class="v3" d="M1861 607l8 6-6-2-8-14zM1588 709l9-12-6-14-9 16z"/><path class="v4" d="M1853 591l8 16-6-10-8-24zM1803 604l8 9-6-15-8 1zM1597 697l9-7 8-13 9-1-6-14-9 3-8 9-9 9z"/><path class="v8" d="M1845 566l8 25-6-18-7-41zM1753 590l8 7 9 1-6-28-9 1-8-5zM1675 615l9-10 9 6 8 4 9-7 8-5 9 0 9-9-6-23-9 10-9 7-8-1-9 7-8-2-9 2-9 10z"/><path class="v10" d="M1829 572l8-20 8 14-5-34-9-19-8 29z"/><path class="v7" d="M1820 602l9-30-6-30-9 40zM1770 598l8 4 8 0-6-18-8-12-8-2zM1658 637l9-10 8-12-6-11-8 9-9 8z"/><path class="v5" d="M1811 613l9-11-6-20-9 16zM1795 604l8 0-6-5-8-8zM1623 676l9-8-6-17-9 11z"/><path class="v6" d="M1786 602l9 2-6-13-9-7zM1632 668l9-14 8-4 9-13-6-16-9 13-9 1-8 16z"/><path class="v9" d="M1736 594l8-8 9 4-6-24-9-1-8 6z"/><path class="v0" d="M1900 624l8 1 8-3 8-3 8-3 8-6-6-2-8 4-8 3-8 3-8-1-9 5zM1523 757l9 2 9-7-6-2-8 4-9 3z"/><path class="v1" d="M1883 620l9-1 8 5-7-2-8-7-8-2zM1541 752l9-5 9-9 9-6 9-5-6-5-9 7-9 5-9 5-9 11zM1514 756l9 1-5 0-10-9z"/><path class="v2" d="M1867 621l8 1 8-2-6-7-8 0-8-6zM1577 727l8-8 9-5 9-6-6-11-9 12-8 9-9 4z"/><path class="v3" d="M1859 611l8 10-6-14-8-16zM1603 708l9-10 8-7-6-14-8 13-9 7z"/><path class="v5" d="M1851 591l8 20-6-20-8-25zM1784 613l8-1 9 4-6-12-9-2-8 0zM1638 676l9-5 8-9-6-12-8 4-9 14z"/><path class="v7" d="M1834 597l9-13 8 7-6-25-8-14-8 20zM1716 626l9-10 8 1 9-4 8-2 9 1 8 2-6-17-8-7-9-4-8 8-9 9-9 0-8 5zM1673 642l8-10 9-1 9-5 8 4-6-15-8-4-9-6-9 10-8 12z"/><path class="v6" d="M1826 611l8-14-5-25-9 30zM1767 614l9-1 8 0-6-11-8-4-9-1zM1707 630l9-4-6-18-9 7zM1655 662l9-11 9-9-6-15-9 10-9 13z"/><path class="v4" d="M1801 616l8 1 8 4 9-10-6-9-9 11-8-9-8 0zM1620 691l9-8 9-7-6-8-9 8-9 1z"/><path class="v0" d="M1906 629l8-1 8-2 8-5 8-2 8-2-6-7-8 6-8 3-8 3-8 3-8-1zM1538 761l9-1 9-3-6-10-9 5-9 7z"/><path class="v1" d="M1873 630l8-3 8 0 9-1 8 3-6-5-8-5-9 1-8 2-8-1zM1556 757l9-12 9-8 9-5-6-5-9 5-9 6-9 9zM1520 760l9-2 9 3-6-2-9-2-9-1z"/><path class="v2" d="M1865 625l8 5-6-9-8-10zM1583 732l8-8 9-3 9-9-6-4-9 6-9 5-8 8z"/><path class="v4" d="M1857 612l8 13-6-14-8-20zM1832 622l8 0-6-25-8 14zM1790 629l8-2 9 4 8-1-6-13-8-1-9-4-8 1zM1635 694l9-5 9-5 8-6-6-16-8 9-9 5-9 7z"/><path class="v5" d="M1840 622l9-15 8 5-6-21-8-7-9 13zM1765 629l8 3 9-6 8 3-6-16-8 0-9 1-8-2zM1661 678l9-11 9-12-6-13-9 9-9 11z"/><path class="v3" d="M1815 630l9-1 8-7-6-11-9 10-8-4zM1609 712l9-9 8-3 9-6-6-11-9 8-8 7-9 10z"/><path class="v6" d="M1679 655l8 0 9-7 9-3 8-10 9 4 9-5 8 2 9-13 8 9 9-3-6-17-9-1-8 2-9 4-8-1-9 10-9 4-8-4-9 5-9 1-8 10z"/><path class="v0" d="M1912 631l8 3 8-4 8-4 8-3 9-8-7 2-8 2-8 2-8 5-8 2-8 1zM1544 761l9 0 9-4-6 0-9 3-9 1z"/><path class="v1" d="M1879 640l8-7 9-1 8-4 8 3-6-2-8-3-9 1-8 0-8 3zM1562 757l9-9 9-10 8-6-5 0-9 5-9 8-9 12zM1526 765l9 1 9-5-6 0-9-3-9 2z"/><path class="v2" d="M1871 636l8 4-6-10-8-5zM1588 732l9-4 9-1 9-6 9-11-6-7-9 9-9 9-9 3-8 8z"/><path class="v3" d="M1805 637l8 2 8 0 9-1 8-1 8-4 9-8 8 2 8 9-6-11-8-13-8-5-9 15-8 0-8 7-9 1-8 1-9-4zM1624 710l8-3 9-4 9 0 9-6 8-7-6-12-8 6-9 5-9 5-9 6-8 3z"/><path class="v4" d="M1762 645l9-2 8-1 9 1 8-6 9 0-7-10-8 2-8-3-9 6-8-3-9 3zM1667 690l9-15-6-8-9 11z"/><path class="v5" d="M1676 675l9-7 8-1 9-9 9-4 8 0 9-4 9-4 8 4 9-9 8 4-6-13-8-9-9 13-8-2-9 5-9-4-8 10-9 3-9 7-8 0-9 12z"/><path class="v0" d="M1918 636l8 3 8-7 9-3 8 0 8-4-6-10-9 8-8 3-8 4-8 4-8-3zM1550 767l9-2-6-4-9 0z"/><path class="v1" d="M1877 651l8-1 8-3 9-11 8-5 8 5-6-5-8-3-8 4-9 1-8 7-8-4zM1559 765l9-8 9-7 9 0 9-3-7-15-8 6-9 10-9 9-9 4zM1532 772l9-6 9 1-6-6-9 5-9-1z"/><path class="v2" d="M1861 634l8 8 8 9-6-15-8-9-8-2zM1827 645l9 2 8-4 8-2-6-8-8 4-8 1-9 1zM1656 710l9-10-6-3-9 6zM1595 747l8-9 9-2 9-7 9-15 9-2-7-5-8 3-9 11-9 6-9 1-9 4z"/><path class="v3" d="M1852 641l9-7-6-9-9 8zM1785 651l9 1 8-10 9 4 8 3 8-4-6-6-8 0-8-2-9 0-8 6-9-1zM1665 700l8-5-6-5-8 7zM1639 712l8-7 9 5-6-7-9 0-9 4z"/><path class="v4" d="M1673 695l9-14 9 2 9-3 8-9 9-5 8 0 9-7 9-2 8-2 9 0 8 3 9-2 8-5-6-9-8 1-9 2-8-4-9 9-8-4-9 4-9 4-8 0-9 4-9 9-8 1-9 7-9 15z"/><path class="v0" d="M1949 629l8 1 8-2-6-3-8 4-8 0zM1924 642l8-2 9-6-7-2-8 7-8-3z"/><path class="v1" d="M1941 634l8-5-6 0-9 3zM1875 648l8 3 9-3 8 4 8-10 8 4 8-4-6-6-8-5-8 5-9 11-8 3-8 1-8-9zM1538 773l9-2 9 1 9-10 9-1 9-2 9-1 9-5 8-11 9-5-6-1-9 2-8 9-9 3-9 0-9 7-9 8-9 2-9-1-9 6z"/><path class="v2" d="M1825 656l8 2 9-3 8 1 8-1 9-9 8 2-6-6-8-8-9 7-8 2-8 4-9-2-8 4zM1662 714l9-1-6-13-9 10zM1618 737l9-11 9-4 9-2-6-8-9 2-9 15-9 7z"/><path class="v3" d="M1766 662l8 4 9-4 8 2 9-6 8-10 9 4 8 4-6-7-8-3-9-4-8 10-9-1-8 5-9 2-8-3zM1671 713l9-7 8-7 9-1 9-4 8-6-6-17-8 9-9 3-9-2-9 14-8 5zM1645 720l8-6 9 0-6-4-9-5-8 7z"/><path class="v4" d="M1714 688l9-12 9 4 8-5 9-4 8-7 9-2-6-7-9 0-8 2-9 2-9 7-8 0-9 5z"/><path class="v0" d="M1922 648l9 0 8-7 8 1 8-2 8-3 8-7-6-2-8 2-8-1-8 5-9 6-8 2-8 4z"/><path class="v1" d="M1873 655l8 5 8 1 9-3 8-5 8-8 8 3-6-2-8-4-8 10-8-4-9 3-8-3-8-2zM1544 778l9-5 9-8 9 1 9 2 9-3 9-3 9-1 8-2 9-10-6-12-9 5-8 11-9 5-9 1-9 2-9 1-9 10-9-1-9 2z"/><path class="v2" d="M1823 664l8-1 9-1 8-4 8-2 9-3 8 2-6-9-9 9-8 1-8-1-9 3-8-2-8-4zM1624 749l9-8 9-6 9-3 8-4 9-6 9-4 9-5 8-1 9-4 9-1 8-11-6-8-8 6-9 4-9 1-8 7-9 7-9 1-9 0-8 6-9 2-9 4-9 11z"/><path class="v3" d="M1720 696l9-5 9-1 8-7 9-5 8-1 9-8 9 3 8-3 9 3 8-6 9-5 8 3-6-12-9-4-8 10-9 6-8-2-9 4-8-4-9 2-8 7-9 4-8 5-9-4-9 12z"/><path class="v0" d="M1929 654l8-1 8-5 8-1 8-3 8-3 9-7-7-4-8 7-8 3-8 2-8-1-8 7-9 0zM1896 669l8-7 8 1-6-10-8 5-9 3zM1586 778l9-5-6-8-9 3z"/><path class="v1" d="M1912 663l8-7 9-2-7-6-8-3-8 8zM1879 664l8-1 9 6-7-8-8-1-8-5zM1595 773l9-5 9-6 8-4 9-6 9-3 9-3 9-8 9-4-7-6-8 4-9 3-9 6-9 8-9 10-8 2-9 1-9 3zM1550 783l9-3 9-6 9 2 9 2-6-10-9-2-9-1-9 8-9 5z"/><path class="v2" d="M1795 676l9 1 8-4 9-6 8 1 9-3 8-4 8 6 9-9 8-3 8 9-6-9-8-2-9 3-8 2-8 4-9 1-8 1-8-3-9 5-8 6-9-3zM1666 734l8-3 9-6 9-3 8-2 9 3 9-3 9-13 8-3 9-11-6-3-9 1-9 5-8 11-9 1-9 4-8 1-9 5-9 4-9 6z"/><path class="v3" d="M1744 693l8-1 9-5 9-1 8-14 9 5 8-1-6-7-8 3-9-3-9 8-8 1-9 5-8 7z"/><path class="v0" d="M1894 670l8 3 8-5 8-2 9-7 8 0 8-1 8-3 8-4 9-6 8-2 8-1-6-8-9 7-8 3-8 3-8 1-8 5-8 1-9 2-8 7-8-1-8 7-9-6zM1583 783l9-4 9-5-6-1-9 5-9-2z"/><path class="v1" d="M1885 666l9 4-7-7-8 1zM1698 730l9 0 8-4 9-6-6 0-9 3-9-3-8 2zM1601 774l9-3 9-1 9 1 8-5 9-8 9-3 9-9 9-4 8-6-6-5-8 3-9 4-9 8-9 3-9 3-9 6-8 4-9 6-9 5zM1556 790l9-5 9-3 9 1-6-7-9-2-9 6-9 3z"/><path class="v2" d="M1793 685l8-3 9 5 8-7 9-5 8-2 9-7 8-4 8 10 9-1 8-9 8 4-6-2-8-9-8 3-9 9-8-6-8 4-9 3-8-1-9 6-8 4-9-1-8 1zM1724 720l9-7 8 1 9-10 9-8 8-3 9-1-6-6-9 1-9 5-8 1-9 11-8 3-9 13zM1680 736l9-5 9-1-6-8-9 3-9 6z"/><path class="v3" d="M1776 692l8-12 9 5-6-8-9-5-8 14z"/><path class="v0" d="M1900 674l8 1 8-1 9-8 8-3 8-5 8 3 9-5 8-3 8-1 8-4 8-1-6-5-8 1-8 2-9 6-8 4-8 3-8 1-8 0-9 7-8 2-8 5-8-3zM1616 779l9-3 9-5 8-2 9 0 9-4-6-10-9 3-9 8-8 5-9-1-9 1z"/><path class="v1" d="M1867 677l8 0 8-1 9 2 8-4-6-4-9-4-8-4-8 9-9 1zM1660 765l9-6 9-11 8-5 9-2 9-3 9 3 8-8 9-3 9-4-6-13-9 7-9 6-8 4-9 0-9 1-9 5-8 6-9 4-9 9zM1562 798l9-1 9-5 9-4 9-9 9-1 9 1-6-8-9 3-9 5-9 4-9-1-9 3-9 5z"/><path class="v2" d="M1799 694l9-4 8-1 9-6 8-6 9-4 8-2 8 3 9 3-7-5-8-10-8 4-9 7-8 2-9 5-8 7-9-5-8 3zM1773 698l9-5-6-1-9 1zM1739 726l8-8 9-8 9-15-6 1-9 8-9 10-8-1z"/><path class="v3" d="M1782 693l9-3 8 4-6-9-9-5-8 12zM1765 695l8 3-6-5-8 3z"/><path class="v0" d="M1906 683l8-6 9 0 8-4 8-2 8-3 9-7 8 2 8-4 8-3 8-7 8 3-6-5-8 1-8 4-8 1-8 3-9 5-8-3-8 5-8 3-9 8-8 1-8-1zM1622 781l9-4 9-3 9 2 8-5 9-2 9-2-6-8-9 6-9 4-9 0-8 2-9 5-9 3zM1568 806l9-3 9-10 9-2-6-3-9 4-9 5-9 1z"/><path class="v1" d="M1873 677l8 0 9-3 8 5 8 4-6-9-8 4-9-2-8 1-8 0zM1675 767l9-10 9-9 8 1 9-9 9 9 9-8 8-2 9-7 9-5-7-9-8 8-9 4-9 3-8 8-9-3-9 3-9 2-8 5-9 11zM1595 791l9 1 9-8 9-3-6-2-9-1-9 1-9 9z"/><path class="v2" d="M1754 727l8-8 9-8 9-5 8-5 9-7 8 9 9-2 8 1 9-4 8-15 9 2 8-3 9-4 8-1-6 0-9-3-8-3-8 2-9 4-8 6-9 6-8 1-9 4-8-4-9 3-9 5-8-3-9 15-9 8z"/><path class="v1" d="M1995 655l8-8-7 5-8-3zM1888 681l8 1 8-1 9-1 8-4 8 3-6-2-9 0-8 6-8-4-8-5-9 3zM1811 713l9-2 8-2 9-12-6 1-9 4-8-1-9 2zM1734 752l8-10 9-5 9-8 8 0-6-10-8 8-9 5-9 7-8 2zM1690 767l9-6 9-7 8-6 9 6-6-5-9-9-9 9-8-1-9 9zM1610 796l9-14 9 1 9-2 9-3 9-6 9-1-7 0-8 5-9-2-9 3-9 4-9 3-9 8z"/><path class="v0" d="M1929 679l8-1 9-4 8 0 8-5 8-1 8-5 9-6 8-2-7-6-8 7-8 3-8 4-8-2-9 7-8 3-8 2-8 4zM1725 754l9-2-6-11-9 8zM1664 771l8 4 9-4 9-4-6-10-9 10-9 2-9 2zM1574 804l9 0 9 1 9-11 9 2-6-4-9-1-9 2-9 10-9 3z"/><path class="v2" d="M1837 697l8 2 9-5 8-4 9-8 8 0 9-1-7-4-8 0-8 1-9 4-8 3-9-2-8 15zM1768 729l9-8 9-12 8 4 9-5 8 5-6-10-8-9-9 7-8 5-9 5-9 8z"/><path class="v1" d="M1993 660l8-5 8-2-6-6-8 8-8 2zM1886 688l8 1 8 4 8-5 9 1 8-4 8-5 9-6 8 6-6-6-9 4-8 1-8-3-8 4-9 1-8 1-8-1-9 1zM1809 715l9 4 8-1 9-4 8-13 9 1 8-5 9-4-7-3-8 4-9 5-8-2-9 12-8 2-9 2-8-5zM1740 752l9-5 8-3 9-8 9-8 8-2-6-5-9 8-8 0-9 8-9 5-8 10zM1705 770l9-9 8-8 9 2-6-1-9-6-8 6-9 7zM1616 797l9-3 9-9 9-1 9-5 9 0 9 1-6-9-9 1-9 6-9 3-9 2-9-1-9 14z"/><path class="v0" d="M1952 680l8-2 8-3 9-3 8-5 8-7-6-3-9 6-8 5-8 1-8 5-8 0zM1731 755l9-3-6 0-9 2zM1670 780l9-2 8-6 9 1 9-3-6-9-9 6-9 4-9 4-8-4zM1580 814l9-5 9-5 9-2 9-5-6-1-9-2-9 11-9-1-9 0z"/><path class="v2" d="M1869 693l8 1 9-6-7-6-8 0-9 8zM1783 726l9-6 9-6 8 1-6-7-9 5-8-4-9 12z"/><path class="v1" d="M1991 672l9-12 8-2 8-3-7-2-8 2-8 5-8 7zM1933 688l9-4 8-5 8 5-6-4-8-6-9 6-8 5zM1815 719l9 4 8-6 9-5 8 1 9-1 8-8 9-7 8 1 9-4 8-6 9 1 8 1 8 2-6-3-9-1-8 5-8-4-8-1-9 6-8-1-9 4-8 5-9-1-8 13-9 4-8 1-9-4zM1711 770l9-10 9 0 8-4 9-2 9-1 9-4 8-9 9-10-6-2-9 8-9 8-8 3-9 5-9 3-9-2-8 8-9 9zM1631 801l9-4 9-6 9-3 9-6 9-4 9 3-6-3-9 2-9-1-9 0-9 5-9 1-9 9zM1595 811l9-5 9-2-6-2-9 2-9 5z"/><path class="v0" d="M1958 684l9-6 8 1 8-6 8-1-6-5-8 5-9 3-8 3-8 2zM1925 692l8-4-6-3-8 4zM1685 781l9-1 8-7 9-3-6 0-9 3-9-1-8 6zM1613 804l9 2 9-5-6-7-9 3-9 5zM1586 816l9-5-6-2-9 5z"/><path class="v2" d="M1781 730l9-1 8-2 9-7 8-1-6-4-8-1-9 6-9 6-8 2z"/><path class="v1" d="M1998 676l8-2 8-9 8-6-6-4-8 3-8 2-9 12zM1822 723l8 1 9-5 8 2 9-4 8-2 9-4 8-1 9-1 8-4 8-4 9-2 8-3 8 0 9-6 8-8 8 2 9 0-7 0-8-5-8 5-9 4-8 4-8-2-8-1-9-1-8 6-9 4-8-1-9 7-8 8-9 1-8-1-9 5-8 6-9-4zM1717 776l9-14 9 5 9 3 8-9 9-6 9-8 8-2 9-2 9-9 8-3-6-4-8 2-9 1-9 10-8 9-9 4-9 1-9 2-8 4-9 0-9 10zM1664 798l9-4 9-6 9-2-6-5-9-3-9 4-9 6zM1592 817l9 2 9-2-6-11-9 5-9 5z"/><path class="v0" d="M1965 684l8 2 8-2 8-5 9-3-7-4-8 1-8 6-8-1-9 6zM1691 786l9-4 9 1 8-7-6-6-9 3-8 7-9 1zM1610 817l9-2 9-7 9-1 9-4 9-4 9-1-6-10-9 3-9 6-9 4-9 5-9-2-9 2z"/><path class="v2" d="M1804 731l9 0 9-8-7-4-8 1-9 7z"/><path class="v1" d="M2020 674l9-3-7-12-8 6zM1938 705l8-7 8-2 9-3 8-3-6-6-9 0-8-2-8 8-9 6zM1828 733l8 0 9-7 9 1 8-1 9-3 8 1 8-5 9-7 8-2 9 3 8-7 8 3-6-13-8 3-9 2-8 4-8 4-9 1-8 1-9 4-8 2-9 4-8-2-9 5-8-1zM1759 770l8-7 9-9 9-8 8-6 9-1 9-2-7-6-8 3-9 9-9 2-8 2-9 8-9 6zM1724 783l8-3 9-2-6-11-9-5-9 14z"/><path class="v0" d="M1971 690l8 0 9-4 8-1 8-10 8-1 8 0-6-9-8 9-8 2-9 3-8 5-8 2-8-2zM1929 709l9-4-7-9-8 0zM1741 778l9-4 9-4-7-9-8 9-9-3zM1598 827l10-2 9-3 9-3 9-8 9 2 9-3 8-4 9-3 9-4 9-4 9-5 9 0 9-4 9-3-7-7-8 7-9-1-9 4-9 2-9 6-9 4-9 1-9 4-9 4-9 1-9 7-9 2-9 2-9-2z"/><path class="v2" d="M1811 737l8-8 9 4-6-10-9 8-9 0z"/><path class="v0" d="M1911 720l8-2 8-5 9 0 8-4 9-5 8-5 8-1 8-4 9-2 8 0 8-6 8-4 9-2 8-1 8-7-6-1-9 3-8 0-8 1-8 10-8 1-9 4-8 0-8 3-9 3-8 2-8 7-9 4-8-3-8 7-9-3zM1877 730l8 1-6-7-8-1zM1605 833l9-4 9-2 9-5 9-2 9-2 9-9 9 3 9-5 9-2 8-4 9-6 9 0 9-5 9-4 9 0 8-4 9-11 9 1 9-5-7-4-8 7-9 4-9 4-9 2-8 3-9 3-9 4-9 0-9 5-9 4-9 4-9 3-8 4-9 3-9-2-9 8-9 3-9 3-10 2z"/><path class="v1" d="M1885 731l9-13 8 6 9-4-7-10-8 2-9 7-8 5zM1834 733l9-3 8 2 9 3 8-1 9-4-6-7-9 3-8 1-9-1-9 7-8 0zM1774 767l8-10 9-3 9-10-7-4-8 6-9 8-9 9z"/><path class="v2" d="M1800 744l8-2 9-4 9-4 8-1-6 0-9-4-8 8-9 2-9 1z"/><path class="v0" d="M2025 682l8 2 9-9-7-3-8 7-8 1zM1984 697l8-3 8 0 9-4-7-4-8 6-8 0-9 2zM1909 728l8-6 8-3 9-3 8-2 8 1 9-4 8-3-6-9-8 5-9 5-8 4-9 0-8 5-8 2-9 4zM1762 777l9 3-6-8-9-1zM1611 838l9-6 9-4 9-5 9 1 9-7 9 1 9-4 9-6 9 0 9-2 9-5 8-4 9-1 9-6-6-4-9 4-9 5-9 0-9 6-8 4-9 2-9 5-9-3-9 9-9 2-9 2-9 5-9 2-9 4z"/><path class="v1" d="M2009 690l8-8 8 0-6-2-9 2-8 4zM1967 708l9-12 8 1-7-3-8 4-8 1zM1823 746l9-1 9-7 8-2 9 2 8 1 9-4 8-5 9-1 8 2 9-3-7-4-8-6-9 13-8-1-9 4-8 1-9-3-8-2-9 3-8 1-9 4zM1771 780l9-12 9-10 8-2 9-4-6-8-9 10-9 3-8 10-9 5zM1736 790l9-14 9 4 8-3-6-6-9 11-8 4-9 0z"/><path class="v2" d="M1806 752l9-5 8-1-6-8-9 4-8 2z"/><path class="v0" d="M2007 699l8-2 8-3 9-4 8-2 8-5-6-8-9 9-8-2-8 0-8 8-9 4zM1898 735l9-3 8 2 9-9 8-3 8 0 9 0 8-4 8-3 9-3-7-4-8 3-9 4-8-1-8 2-9 3-8 3-8 6-9 3-8-2zM1769 787l8-3-6-4-9-3zM1662 824l9-1 9-3 9-2 9-4 9-3 9-3 9-3 8-5 9-2-6-8-9 6-9 1-8 4-9 5-9 2-9 0-9 6-9 4-9-1zM1617 842l9-8 9-2-6-4-9 4-9 6z"/><path class="v1" d="M1974 712l8-18 9 4 8-4 8 5-7-5-8 0-8 3-8-1-9 12zM1830 749l8 4 9-7 8 5 9-4 9-2 8-1 9-8 8-1-6-6-9 1-8 5-9 4-8-1-9-2-8 2-9 7-9 1zM1777 784l9-10 9-6 9-8 8-6-6-2-9 4-8 2-9 10-9 12zM1742 798l9-6 9-11 9 6-7-10-8 3-9-4-9 14zM1635 832l9-11 9 0 9 3-6-7-9 7-9-1-9 5z"/><path class="v2" d="M1812 754l9-4 9-1-7-3-8 1-9 5z"/><path class="v0" d="M2013 699l9 1 8-4 8-5 8-3 9-5-7 0-8 5-8 2-9 4-8 3-8 2zM1947 727l8-3 8-4 9-3 8-5-6 0-9 3-8 3-8 4-9 0zM1905 739l8 3 8-5 9-9-6-3-9 9-8-2-9 3zM1870 756l9-8 8-4-6 0-8 1-9 2zM1775 786l9-1 8 0-6-11-9 10-8 3zM1668 833l9-4 9-4 9-8 9 2 9-6 9-4 9-3 9-3 9-3 8-4-6-4-9 6-9 2-8 5-9 3-9 3-9 3-9 4-9 2-9 3-9 1zM1623 843l9-3 9-3-6-5-9 2-9 8z"/><path class="v1" d="M1980 712l9-8 8 4 8-10 8 1-6 0-8-5-8 4-9-4-8 18zM1930 728l8-4 9 3-7-5-8 0-8 3zM1887 744l9-5 9 0-7-4-8 1-9 8zM1792 785l9-9 9-4 9-6 8-2 9-9 9 8 8-9 9-2 8 4-6-9-9 4-8-5-9 7-8-4-9 1-9 4-8 6-9 8-9 6zM1757 796l9-3 9-7-6 1-9-6-9 11zM1641 837l9-6 9-3 9 5-6-9-9-3-9 0-9 11z"/><path class="v1" d="M2053 692l8-8-6-1-9 5zM1987 717l8 1 9-15 8-4 8 4-7-4-8-1-8 10-8-4-9 8zM1936 733l9-2 8 3-6-7-9-3-8 4zM1885 751l9-4 9-8 8 8-6-8-9 0-9 5-8 4zM1808 786l8-4 9-8 9-1 8-7 9-3 9-2 8 0 9-1-7-4-8-4-9 2-8 9-9-8-9 9-8 2-9 6-9 4zM1755 800l9-3 9-5 8-4 9 7-6-10-9 1-9 7-9 3-8 4zM1719 814l9-10 9 4-6-2-9 3-9 4zM1648 847l9-13 9 5-7-11-9 3-9 6z"/><path class="v0" d="M2020 703l8-3 8-1 9 1 8-8-7-4-8 3-8 5-8 4-9-1zM1953 734l8-4 9-3 8-2 9-8-7-5-8 5-9 3-8 4-8 3zM1911 747l8-1 9-3 8-10-6-5-9 9-8 5-8-3zM1877 760l8-9-6-3-9 8zM1790 795l9-5 9-4-7-10-9 9-8 0zM1737 808l9 2 9-10-6 0-9 3-9 3zM1666 839l9-4 9-2 9-9 9-2 9 1 8-9-6-1-9 6-9-2-9 8-9 4-9 4-9-5zM1629 848l9-3 10 2-7-10-9 3-9 3z"/></g>
<path d="M808.9 450.2L1059.7 356.1M642.5 319.3L808.9 450.2M642.5 319.3L633.8 118.4M830.7 446L825.4 441.8M792.4 441.9L798.7 439.5M887 424.8L881.5 420.8M754.4 412.1L760.8 409.7M941.8 404.2L936.2 400.3M717.9 383.3L724.4 381.1M995.1 384.2L989.5 380.3M682.8 355.7L689.2 353.5M1047 364.6L1041.3 360.9M648.9 329L655.3 326.8M636.6 281.4L643.1 279.3M635 243.4L641.4 241.4M633.3 204.8L639.8 202.9M631.6 165.7L638.1 163.7M629.9 125.9L636.4 124" stroke="#111" stroke-width="0.85" fill="none"/>
<g class="tk" font-size="14"><text x="836.5" y="471.2">−10</text><text x="784.3" y="466.1">−10</text><text x="892.4" y="449.7">−5</text><text x="746.4" y="435.8">−5</text><text x="946.9" y="428.7">0</text><text x="709.9" y="406.6">0</text><text x="999.9" y="408.3">5</text><text x="674.7" y="378.4">5</text><text x="1051.5" y="388.4">10</text><text x="640.9" y="351.3">10</text></g>
<text class="al" x="961.8" y="449.7" font-size="16.4">x</text>
<text class="al" x="688.9" y="421.9" font-size="16.4">y</text>
<text class="zl" transform="translate(615.2 220.9) rotate(87.5)" font-size="16.4">|<tspan class="i">u</tspan>(<tspan class="i">x</tspan>,<tspan class="i" dx="3.2">y</tspan>)|</text>
<linearGradient id="g1" x1="0" y1="0" x2="0" y2="1"><stop offset="0%" stop-color="#fde725"/><stop offset="6.2%" stop-color="#d8e219"/><stop offset="12.5%" stop-color="#addc30"/><stop offset="18.8%" stop-color="#84d44b"/><stop offset="25%" stop-color="#5ec962"/><stop offset="31.2%" stop-color="#3fbc73"/><stop offset="37.5%" stop-color="#28ae80"/><stop offset="43.8%" stop-color="#1fa088"/><stop offset="50%" stop-color="#21918c"/><stop offset="56.2%" stop-color="#26828e"/><stop offset="62.5%" stop-color="#2c728e"/><stop offset="68.8%" stop-color="#33638d"/><stop offset="75%" stop-color="#3b528b"/><stop offset="81.2%" stop-color="#424086"/><stop offset="87.5%" stop-color="#472d7b"/><stop offset="93.8%" stop-color="#48186a"/><stop offset="100%" stop-color="#440154"/></linearGradient>
<rect x="1085.3" y="96.8" width="20.1" height="295.1" fill="url(#g1)" stroke="#111" stroke-width="0.85"/>
<path d="M1105.4 335h3.3M1105.4 275.2h3.3M1105.4 215.4h3.3M1105.4 155.7h3.3" stroke="#111" stroke-width="0.85" fill="none"/>
<g class="cb" font-size="12.0"><text x="1112.3" y="338.6">2</text><text x="1112.3" y="278.8">4</text><text x="1112.3" y="219">6</text><text x="1112.3" y="159.3">8</text></g>
<text class="cb" font-size="12.0" x="1106" y="94.4" text-anchor="end">×10<tspan dy="-4.6" font-size="8.4">−2</tspan></text>
<text class="cap" transform="translate(863.2 543) scale(1.06 1)" font-size="42" textLength="349.1" lengthAdjust="spacing">(b) HNO Prediction</text>
</g>
<g id="pc">
<path d="M1238.6 322.1L1474.7 243.9M1474.7 243.9L1648.8 358.2M1230.1 124.5L1476.1 54.6M1476.1 54.6L1657.8 157M1474.7 243.9L1476.1 54.6M1648.8 358.2L1657.8 157M1402.3 450.8L1238.6 322.1M1402.3 450.8L1648.8 358.2M1238.6 322.1L1230.1 124.5" stroke="#f0f0f0" stroke-width="0.9" fill="none"/>
<path d="M1420.3 444L1255.7 316.4M1255.7 316.4L1248 119.4M1390 441.1L1635.9 349.7M1635.9 349.7L1644.2 149.3M1475.5 423.3L1308.5 298.9M1308.5 298.9L1303 103.8M1352.7 411.8L1596.3 323.8M1596.3 323.8L1602.9 126M1529.3 403.1L1360 281.9M1360 281.9L1356.7 88.5M1316.9 383.6L1558.2 298.8M1558.2 298.8L1563 103.6M1581.7 383.4L1410.2 265.3M1410.2 265.3L1409 73.7M1282.3 356.4L1521.4 274.6M1521.4 274.6L1524.7 82M1632.8 364.3L1459.3 249.1M1459.3 249.1L1460 59.2M1249 330.3L1485.9 251.2M1485.9 251.2L1487.6 61.1M1237.2 290.4L1475 213.5M1475 213.5L1650.2 326M1235.7 254.8L1475.2 179.3M1475.2 179.3L1651.9 289.7M1234.1 218.6L1475.4 144.7M1475.4 144.7L1653.5 252.9M1232.5 181.5L1475.7 109.1M1475.7 109.1L1655.2 215.1M1230.9 143.2L1475.9 72.5M1475.9 72.5L1656.9 176" stroke="#b6b6b6" stroke-width="0.85" fill="none"/>
<g transform="scale(0.5)" stroke-width="1.3" stroke-linejoin="round"><path class="w12" d="M2922 337l9-23 8 20 9-37-6-2-9 34-8-24-9 8zM2896 331l9-10 8 16-6-5-8-37-9 22zM2861 320l9 41 8-31-6 0-8-19-9 5zM2834 339l9 23 9-27-6-28-9 25-9 1zM2789 339l10 40 8-38 10 18 8-26-6 4-9 15-8 18-9-12-10-24zM2772 374l9-15-6 3-9 9zM2735 350l10 33-6 2-10-34zM2653 412l10 10 8-38 9-14 10 28 9-23 9 18 9-18-6-33-9 41-9-10-9 9-9 10-10 4-9 4-10-14zM2634 397l10 26-6 12-11-63zM2578 434l9-25 10 15 9-3-6-6-9 8-10-18-9 13zM2550 438l9 6-6-17-10-17z"/><path class="w11" d="M2913 337l9 0-6-24-9 19zM2878 330l9 40 9-39-6-14-9 23-9-10zM2745 383l9 5 9 9 9-23-6-3-9 9-9 7-9-2zM2644 423l9-11-7-26-8 49zM2559 444l10 14 9-24-6-16-9 35-10-26z"/><path class="w13" d="M2852 335l9-15-6-4-9-9zM2825 333l9 6-6-6-9 4zM2781 359l8-20-6-5-8 28zM2717 375l9 4 9-29-6 1-9 13-9-22zM2606 421l9-33 10 30 9-21-7-25-8 35-11-57-8 65zM2530 428l9-2 11 12-7-28-10-3-9 26z"/><path class="w12" d="M2937 318l9 9 9-36-7 6-9 37-8-20zM2867 312l9 59-6-10-9-41zM2823 366l9-10 9 8 8-16 9-16-6 3-9 27-9-23-9-6-8 26zM2778 353l9 2 9 23-7-39-8 20-9 15zM2696 398l8-32 10 35 10 9 8-54-6 23-9-4-9 18-9-18-9 23zM2584 427l9-4 10 7 9-18 10 19 9 1 9-25 9-6 9-25 10 34-5 12-10-10-9 11-10-26-9 21-10-30-9 33-9 3-10-15-9 25zM2537 454l9-1 9-32 10 29-6-6-9-6-11-12-9 2z"/><path class="w11" d="M2876 371l9-26 8-5 9 10 9-5 9-6 8 16 9-37-6-4-9 23-9 0-8-16-9 10-9 39-9-40-8 31zM2796 378l9 4 9 8 9-24-6-7-10-18-8 38-10-40zM2751 381l9 5 9 4 9-37-6 21-9 23-9-9-9-5zM2668 410l10 20-7-46-8 38zM2565 450l9-15 10-8-6 7-9 24-10-14z"/><path class="w13" d="M2858 332l9-20-6 8-9 15zM2732 356l9 0 10 25-6 2-10-33-9 29zM2678 430l7-83 11 51-6 0-10-28-9 14z"/><path class="w12" d="M2952 340l9-45-6-4-9 36zM2917 329l9 0-6 10-9 6zM2829 369l9-21 9 3 9 22 8-6 9-27 9 28-6 3-9-59-9 20-9 16-8 16-9-8-9 10zM2793 349l9 22-6 7-9-23zM2775 387l9-24-6-10-9 37zM2748 387l9 30-6-36-10-25zM2729 403l10-9-7-38-8 54zM2702 415l9-33 10 44-7-25-10-35-8 32zM2684 429l8-44-7-38-7 83zM2665 403l9 14-6-7-10-34zM2646 425l9-11-6-13-9 6zM2580 446l10-16 9-4 10 11 9-27 10 32-6-11-10-19-9 18-10-7-9 4-10 8zM2550 407l12 50-7-36-9 32z"/><path class="w11" d="M2926 329l9-9 8 22 9-2-6-13-9-9-9 37-8-16zM2882 368l9-10 9 15 8-12 9-32-6 16-9 5-9-10-8 5-9 26zM2802 371l9-2 9 22 9-22-6-3-9 24-9-8-9-4zM2757 417l9-31 9 1-6 3-9-4-9-5zM2721 426l8-23-5 7-10-9zM2674 417l10 12-6 1-10-20zM2628 442l9 8 9-25-6-18-9 25-9-1zM2562 457l11 42 7-53-6-11-9 15-10-29z"/><path class="w13" d="M2784 363l9-14-6 6-9-2zM2739 394l9-7-7-31-9 0zM2692 385l10 30-6-17-11-51zM2655 414l10-11-7-27-9 25zM2541 428l9-21-4 46-9 1z"/><path class="w13" d="M2958 307l9-4-6-8-9 45zM2844 351l9-8-6 8-9-3zM2790 354l9 9 9-2-6 10-9-22-9 14zM2548 468l8-71 11 58-5 2-12-50-9 21z"/><path class="w11" d="M2941 359l8-9 9-43-6 33-9 2-8-22zM2897 359l9-11 9-24-7 37-8 12-9-15zM2862 370l9-4-7 1-8 6zM2754 390l9 19 9-25-6 2-9 31-9-30zM2727 433l8-35 10 15-6-19-10 9-8 23zM2634 436l9-13 9 15-6-13-9 25-9-8zM2597 477l8-27 10 3-6-16-10-11-9 4zM2578 479l7-58-5 25-7 53z"/><path class="w12" d="M2915 324l8 16 9 4 9 15-6-39-9 9-9 0-9 32zM2871 366l8-8 9-45 9 46-6-1-9 10-9-28-9 27zM2853 343l9 27-6 3-9-22zM2808 361l9 6 9-5 9 3 9-14-6-3-9 21-9 22-9-22-9 2zM2772 384l9-12 9-18-6 9-9 24-9-1zM2745 413l9-23-6-3-9 7zM2652 438l9-25 10 0 8-27 10 30 9-33 10 58 9-68 10 60-6-7-10-44-9 33-10-30-8 44-10-12-9-14-10 11-9 11zM2615 453l9-33 10 16-6 6-10-32-9 27zM2585 421l12 56-7-47-10 16z"/><path class="w10" d="M2567 455l11 24-5 20-11-42z"/><path class="w13" d="M2965 318l8-17-6 2-9 4zM2886 356l8-22 9 15-6 10-9-46-9 45zM2850 344l9 7-6-8-9 8zM2796 380l9-21 9 9-6-7-9 2-9-9zM2677 420l9-26 9 20-6 2-10-30-8 27zM2554 451l8-46-6-8-8 71z"/><path class="w12" d="M2956 349l9-31-7-11-9 43zM2912 362l9-26 9 26-7-22-8-16-9 24zM2859 351l9 33-6-14-9-27zM2841 390l9-46-6 7-9 14zM2814 368l9 18-6-19-9-6zM2769 393l9-20 9 12 9-5-6-26-9 18-9 12-9 25zM2741 398l10 1-6 14-10-15zM2695 414l10 0 9-6 9-27 10 55-6-3-10-60-9 68-10-58-9 33zM2658 430l9-14 10 4-6-7-10 0-9 25zM2621 446l9-26 9-3 10 35-6-29-9 13-10-16-9 33zM2572 431l10 12 10 8-7-30-7 58-11-24z"/><path class="w11" d="M2930 362l8-12 9-3 9 2-7 1-8 9-9-15-9-4zM2903 349l9 13-6-14-9 11zM2868 384l9 17 9-45-7 2-8 8-9 4zM2823 386l9 23 9-19-6-25-9-3-9 5zM2751 399l9 17 9-23-6 16-9-19-9 23zM2733 436l8-38-6 0-8 35zM2649 452l9-22-6 8-9-15zM2592 451l10 16 9-31 10 10-6 7-10-3-8 27-12-56z"/><path class="w14" d="M2562 405l10 26-5 24-11-58z"/><path class="w13" d="M2971 305l8 27-6-31-8 17zM2892 349l9-10-7-5-8 22zM2560 460l9-4 10 11-7-36-10-26-8 46z"/><path class="w12" d="M2901 339l8 20 9 0 9-8 9-12 9 4 8-7 9-6 9-25-6 13-9 31-9-2-9 3-8 12-9-26-9 26-9-13-9-15zM2847 361l9-1 9 27-6-36-9-7-9 46zM2655 428l9 8 9-11 10-6 9 20 9-25 10-6 9 17 9-34 9 23 9-26 10 10 9-5 9-2 9-9 9 17 9-21 9 17 9-32 9 15-6 8-9-18-9-9-9 21-9 5-9-12-9 20-9 23-9-17-10-1-8 38-10-55-9 27-9 6-10 0-9-20-9 26-10-4-9 14-9 22zM2579 467l9-29 10 0 10 11 8-41 11 52 8-51 11 61-7-53-9 3-9 26-10-10-9 31-10-16-10-8-10-12z"/><path class="w11" d="M2865 387l9-19 9 18 9-37-6 7-9 45-9-17-9-33zM2829 378l9 29 9-46-6 29-9 19-9-23zM2646 470l9-42-6 24-10-35z"/><path class="w12" d="M2977 324l9 17-7-9-8-27zM2916 356l9 3 8-29 9 22 9-6 9-31-7 21-8 7-9-4-9 12-9 8-9 0zM2889 366l9-15-6-2-9 37zM2862 353l9 11-6 23-9-27zM2790 392l9-1 9-1 10 4 8-10 9-18 10 20 8-9-6-16-9 46-9-29-9-15-9 32-9-17-9 21-9-17zM2660 420l10 12 9-3 10-4 9-1 10 10 9-26 9-9 9 0 10 38 9-39 9-4 9 24 9-44-6 17-9 2-9 5-10-10-9 26-9-23-9 34-9-17-10 6-9 25-9-20-10 6-9 11-9-8zM2633 457l9-23 10 33-6 3-11-61-8 51zM2604 457l10 8-6-16-10-11zM2565 445l11 24 9-17 9-9-6-5-9 29-10-11-9 4z"/><path class="w13" d="M2960 315l8 18 9-9-6-19-9 25-9 6zM2898 351l9-28 9 33-7 3-8-20-9 10zM2853 377l9-24-6 7-9 1zM2781 374l9 18-6-10-9 9zM2614 465l8-61 11 53-6 3-11-52-8 41zM2594 443l10 14-6-19-10 0z"/><path class="w11" d="M2871 364l9 22 9-20-6 20-9-18-9 19zM2652 467l8-47-5 8-9 42z"/><path class="w12" d="M2931 378l9-46 8 28 9 8 9-36 8 35 9-26 9-1-6 1-9-17-9 9-8-18-9 31-9 6-9-22-8 29zM2895 377l9-10-6-16-9 15zM2878 361l9 23-7 2-9-22zM2833 405l9-40 9 15 9 1 9-10-7-18-9 24-8 9-10-20-9 18zM2797 415l8-23 10 1 9 11-6-10-10-4-9 1-9 1zM2778 424l9-48-6-2-9 44zM2741 414l10-3 9 8 9 4-6-29-9 4-9 39-10-38zM2714 431l9-13-6-10-9 26zM2667 453l9-14 10-8 9 17-6-23-10 4-9 3-10-12zM2639 464l9-8-6-22-9 23zM2572 470l9-8 10 9 10-10 10 23-7-27-10-14-9 9-9 17-11-24z"/><path class="w11" d="M2922 384l9-6-6-19-9-3zM2887 384l8-7-6-11-9 20zM2824 404l9 1-7-21-8 10zM2769 423l9 1-6-6-9-24zM2695 448l10 25 9-42-6 3-10-10-9 1zM2648 456l10-1 9-2-7-33-8 47-10-33zM2611 484l9-29-6 10-10-8z"/><path class="w13" d="M2904 367l9-31 9 48-6-28-9-33-9 28zM2869 371l9-10-7 3-9-11zM2787 376l10 39-7-23-9-18zM2723 418l9-15 9 11-6-15-9 0-9 9zM2620 455l8-48 11 57-6-7-11-53-8 61z"/><path class="w12" d="M2990 351l8 13-6-24-9 1zM2964 356l8-5 9 12-7 4-8-35-9 36zM2937 376l9-31 9 25-7-10-8-28-9 46zM2920 343l8 30-6 11-9-48zM2884 364l9 4 9-5 9-4-7 8-9 10-8 7-9-23zM2857 378l9 20 9-27-6 0-9 10-9-1zM2839 407l9-36-6-6-9 40zM2756 380l10 34 9-2 9-24 10 29 9 18 9-42 9 45-6-45-10-1-8 23-10-39-9 48-9-1-9-4-9-8zM2720 423l9 25 9-19 9-28-6 13-9-11-9 15-9 13zM2664 461l9-28 10 30 9-9 9-14-6 8-9-17-10 8-9 14-9 2zM2577 465l10-8 10 4 9-13 11 40 8-62-5 29-9 29-10-23-10 10-10-9-9 8z"/><path class="w11" d="M2981 363l9-12-7-10-9 26zM2955 370l9-14-7 12-9-8zM2928 373l9 3-6 2-9 6zM2821 438l9-42 9 11-6-2-9-1-9-11zM2701 440l10 25 9-42-6 8-9 42-10-25zM2645 466l9-3 10-2-6-6-10 1-9 8z"/><path class="w13" d="M2911 359l9-16-7-7-9 31zM2875 371l9-7-6-3-9 10zM2848 371l9 7-6 2-9-15zM2747 401l9-21-5 31-10 3zM2633 393l12 73-6-2-11-57z"/><path class="w14" d="M2625 426l8-33-5 14-8 48z"/><path class="w11" d="M2961 371l9 18 9-26 8 11 9-10 9-14-7 14-8-13-9 12-9-12-8 5-9 14zM2827 421l9 4 9-26-6 8-9-11-9 42zM2800 422l9 7-6 6-9-18zM2689 477l9-22 10 6 8-27 10 23 9-17-6 8-9-25-9 42-10-25-9 14-9 9zM2651 470l9-14 10 32-6-27-10 2-9 3z"/><path class="w12" d="M2926 384l9-15 9-13 8 18 9-3-6-1-9-25-9 31-9-3-8-30zM2863 376l9 12 9-8 9 10 9-14 9 8-6-21-9 5-9-4-9 7-9 27-9-20zM2845 399l9-2-6-26-9 36zM2809 429l9-45 9 37-6 17-9-45-9 42zM2790 394l10 28-6-5-10-29zM2772 398l9 7-6 7-9 2zM2735 440l9-25-6 14-9 19zM2670 488l9-52 10 41-6-14-10-30-9 28zM2612 435l10 42 9-21-6-30-8 62-11-40zM2584 490l9-25 10 21-6-25-10-4-10 8z"/><path class="w13" d="M2908 384l9-38 9 38-6-41-9 16-9 4zM2854 397l9-21-6 2-9-7zM2781 405l9-11-6-6-9 24zM2744 415l10-3 9-3 9-11-6 16-10-34-9 21-9 28zM2640 429l11 41-6-4-12-73zM2603 486l9-51-6 13-9 13z"/><path class="w14" d="M2631 456l9-27-7-36-8 33z"/><path class="w12" d="M3002 373l10-61-7 38-9 14zM2932 376l9-3 9 12-6-29-9 13-9 15zM2914 407l9-52-6-9-9 38zM2896 402l9-12-6-14-9 14zM2878 382l9 40-6-42-9 8zM2851 405l9 0 9-29-6 0-9 21-9 2zM2815 418l9-38 9 24-6 17-9-37-9 45zM2797 403l9 15-6 4-10-28zM2704 456l9-31 9 4-6 5-8 27-10-6zM2676 454l9-4-6-14-9 52zM2646 433l11 49-6-12-11-41zM2590 482l9-16 11 44 9-38 9 3 10-12-7-7-9 21-10-42-9 51-10-21-9 25z"/><path class="w11" d="M2950 385l8 15 10-44 8 12 9-4 9 7 8 2-6-9-9 10-8-11-9 26-9-18-9 3-8-18zM2905 390l9 17-6-23-9-8zM2887 422l9-20-6-12-9-10zM2833 404l9 7 9-6-6-6-9 26-9-4zM2806 418l9 0-6 11-9-7zM2722 429l11 43 8-53-6 21-9 17-10-23zM2685 450l10 41 9-35-6-1-9 22-10-41zM2657 482l10-7 9-21-6 34-10-32-9 14z"/><path class="w13" d="M2923 355l9 21-6 8-9-38zM2869 376l9 6-6 6-9-12zM2741 419l9-19 9-17 10 39 9-4 9-27 10 12-7-9-9 11-9-7-9 11-9 3-10 3-9 25zM2638 463l8-30-6-4-9 27z"/><path class="w13" d="M3009 317l9 39-6-44-10 61zM2867 356l9 37 9-11-7 0-9-6-9 29zM2830 413l9-25-6 16-9-24zM2766 403l9 2 9-34 10 38 9-12 9-3-6 24-9-15-10-12-9 27-9 4-10-39zM2747 428l10-14-7-14-9 19zM2719 432l9-33-6 30-9-4zM2644 490l9-57-7 0-8 30z"/><path class="w12" d="M2974 358l9 6 8 10 9-17 9-40-7 56-8-2-9-7-9 4-8-12zM2930 374l8 4 9-3 9-29-6 39-9-12-9 3-9-21zM2903 393l9-10-7 7-9 12zM2885 382l9 29-7 11-9-40zM2839 388l10 33 9-9 9-56-7 49-9 0-9 6-9-7zM2812 394l9 13 9 6-6-33-9 38-9 0zM2728 399l11 71 8-42-6-9-8 53-11-43zM2710 459l9-27-6-7-9 31zM2653 433l10 51 9-43 10 29 9-20-6 0-9 4-9 21-10 7-11-49zM2624 460l10 0 10 30-6-27-10 12-9-3zM2596 505l9-32-6-7-9 16z"/><path class="w11" d="M2956 346l9 50 9-38-6-2-10 44-8-15zM2912 383l8 43 10-52-7-19-9 52-9-17zM2894 411l9-18-7 9-9 20zM2691 450l10 23 9-14-6-3-9 35-10-41zM2605 473l11 54 8-67-5 12-9 38-11-44z"/><path class="w14" d="M2757 414l9-11-7-20-9 17z"/><path class="w13" d="M3007 360l8-6 9-9-6 11-9-39-9 40zM2954 402l9-55 8 18-6 31-9-50-9 29zM2864 408l9-4 9-12-6 1-9-37-9 56zM2837 406l9-9-7-9-9 25zM2800 402l9 0 9-2 10 8-7-1-9-13-9 3-9 12zM2754 432l8-37-5 19-10 14zM2726 458l9-22-7-37-9 33zM2650 475l9-40 10 44-6 5-10-51-9 57zM2630 459l11 27-7-26-10 0z"/><path class="w12" d="M2971 365l9 21 9-21 9-3 9-2-7-3-9 17-8-10-9-6-9 38zM2936 382l9 10 9 10-7-27-9 3-8-4zM2882 392l9 4 9-6 9 3 9-17-6 7-9 10-9 18-9-29-9 11zM2846 397l9 10 9 1-6 4-9 9-10-33zM2828 408l9-2-7 7-9-6zM2735 436l9 12 10-16-7-4-8 42-11-71zM2669 479l9-15 10 3 9-8 10 13 9-37 10 23-7-26-9 27-9 14-10-23-9 20-10-29-9 43zM2641 486l9-11-6 15-10-30z"/><path class="w11" d="M2918 376l9 27 9-21-6-8-10 52-8-43zM2602 509l10 0 10 11 8-61-6 1-8 67-11-54-9 32z"/><path class="w14" d="M2790 369l10 33-6 7-10-38zM2762 395l10 9 9-43-6 44-9-2-9 11z"/><path class="w15" d="M2781 361l9 8-6 2-9 34z"/><path class="w13" d="M3022 349l9-3-7-1-9 9zM2969 373l9-6-7-2-8-18zM2942 365l9 4-6 23-9-10zM2870 352l9 55 9-33 9 27-6-5-9-4-9 12-9 4zM2815 417l10-9 9-3 9 3 9 3 9-47-6 43-9-10-9 9-9 2-10-8-9 2zM2666 485l9-25-6 19-10-44zM2636 455l10-3-5 34-11-27z"/><path class="w12" d="M2978 367l9 16 8 5 9-15 9 3 9-27-7 5-8 6-9 2-9 3-9 21-9-21zM2951 369l9 30 9-26-6-26-9 55-9-10zM2933 405l9-40-6 17-9 21zM2897 401l10-13 9-3 8 43-6-52-9 17-9-3-9 6zM2704 480l9-21 9-12 10 28 9-22 10 28 9-51-6 2-10 16-9-12-9 22-10-23-9 37-10-13zM2675 460l10 27-7-23-9 15zM2646 452l10 38 10-5-7-50-9 40-9 11zM2628 530l8-75-6 4-8 61zM2607 472l11 23-6 14-10 0z"/><path class="w11" d="M2924 428l9-23-6-2-9-27zM2685 487l10 11 9-18-7-21-9 8-10-3zM2618 495l10 35-6-10-10-11z"/><path class="w14" d="M2861 364l9-12-6 56-9-1zM2806 378l9 39-6-15-9 0zM2760 430l9-23-7-12-8 37z"/><path class="w15" d="M2797 383l9-5-6 24-10-33zM2769 407l9-35 9 2-6-13-9 43-10-9z"/><path class="w16" d="M2787 374l10 9-7-14-9-8z"/><path class="w13" d="M3028 356l9 4-6-14-9 3zM2976 368l8 3-6-4-9 6zM2949 384l8 23-6-38-9-4zM2886 405l9-32 9 63-7-35-9-27-9 33zM2822 439l9-38 9 11 9-32 9 14-6 17-9-3-9-3-9 3-10 9zM2643 490l10 15-7-53-10 3z"/><path class="w12" d="M3011 381l8 0 9-25-6-7-9 27-9-3zM2984 371l9 29-6-17-9-16zM2957 407l10-36 9-3-7 5-9 26-9-30zM2940 397l9-13-7-19-9 40zM2904 436l9-10 9-8 9-19-7 29-8-43-9 3-10 13zM2719 473l9-30 10 30 9-40 10 21 9-38-6 14-9 51-10-28-9 22-10-28-9 12zM2672 481l9-1 10 8-6-1-10-27-9 25zM2653 505l10 8-7-23-10-38zM2614 511l10-11 9-17 10 7-7-35-8 75-10-35-11-23z"/><path class="w11" d="M2993 400l8 13 10-32-7-8-9 15-8-5zM2931 399l9-2-7 8-9 23zM2711 511l8-38-6-14-9 21zM2691 488l10 24-6-14-10-11zM2663 513l9-32-6 4-10 5z"/><path class="w14" d="M2877 346l9 59-7 2-9-55zM2858 394l9-50-6 20-9 47zM2812 342l10 97-7-22-9-39zM2766 416l9-50-6 41-9 23z"/><path class="w16" d="M2867 344l10 2-7 6-9 12zM2775 366l9 0 9-10 10-10 9-4-6 36-9 5-10-9-9-2-9 35z"/><path class="w10" d="M2701 512l10-1-7-31-9 18z"/><path class="w13" d="M3034 387l10-69-7 42-9-4zM2973 385l9 6 9-15-7-5-8-3-9 3zM2892 377l9 25-6-29-9 32zM2828 407l9-19-6 13-9 38z"/><path class="w12" d="M3026 390l8-3-6-31-9 25zM2991 376l9 2-7 22-9-29zM2928 407l9-11 9-14 9 22 9-10 9-9-6-14-10 36-8-23-9 13-9 2-9 19zM2901 402l9 25-6 9-9-63zM2754 512l9-74-6 16-10-21zM2726 489l9 9-7-55-9 30zM2620 496l10 4 10 8 10-3 9-3-6 3-10-15-10-7-9 17-10 11z"/><path class="w11" d="M3000 378l8 26 9-19 9 5-7-9-8 0-10 32-8-13zM2910 427l9-20 9 0-6 11-9 8-9 10zM2735 498l10-12 9 26-7-79-9 40-10-30zM2659 502l10-1 10 15 9-12 10-1 9 4-6 5-10-24-10-8-9 1-9 32-10-8z"/><path class="w15" d="M2883 345l9 32-6 28-9-59zM2855 362l10 3-7 29-9-14zM2818 369l10 38-6 32-10-97z"/><path class="w17" d="M2874 318l9 27-6 1-10-2zM2809 324l9 45-6-27-9 4zM2781 372l9-33-6 27-9 0z"/><path class="w16" d="M2865 365l9-47-7 26-9 50zM2772 395l9-23-6-6-9 50z"/><path class="w14" d="M2837 388l9 25 9-51-6 18-9 32-9-11zM2763 438l9-43-6 21-9 38z"/><path class="w18" d="M2790 339l9-24 10 9-6 22-10 10-9 10z"/><path class="w10" d="M2707 507l10 13 9-31-7-16-8 38-10 1z"/><path class="w13" d="M3041 362l9-16-6-28-10 69zM2944 403l9-5-7-16-9 14z"/><path class="w11" d="M3015 400l9-23 8 25 9-40-7 25-8 3-9-5-9 19zM2732 488l10 13 9-35 9-6-6 52-9-26-10 12-9-9zM2665 499l10 8 9-10 11 37 8-40-5 9-10 1-9 12-10-15-10 1zM2646 520l10-10-6-5-10 3z"/><path class="w12" d="M2953 398l9 0 8 2 10-18 8 14 9 11 9-20 9 13-7 4-8-26-9-2-9 15-9-6-9 9-9 10-9-22zM2908 394l9 33 9-9 9-15 9 0-7-7-9 11-9 0-9 20-9-25zM2760 460l9-24-6 2-9 74zM2656 510l9-11-6 3-9 3zM2626 509l10 5 10 6-6-12-10-8-10-4z"/><path class="w14" d="M2899 390l9 4-7 8-9-25zM2843 392l10 7-7 14-9-25z"/><path class="w15" d="M2889 365l10 25-7-13-9-32zM2853 399l9-44-7 7-9 51zM2825 368l9 18 9 6-6-4-9 19-10-38zM2769 436l9-70-6 29-9 43z"/><path class="w17" d="M2871 373l9-47 9 39-6-20-9-27-9 47zM2815 373l10-5-7 1-9-45z"/><path class="w16" d="M2862 355l9 18-6-8-10-3zM2778 366l10 50-7-44-9 23z"/><path class="w20" d="M2796 298l9-3 10 78-6-49-10-9-9 24z"/><path class="w19" d="M2788 416l8-118-6 41-9 33z"/><path class="w10" d="M2723 532l9-44-6 1-9 31zM2703 494l11 43-7-30-9-4z"/><path class="w9" d="M2714 537l9-5-6-12-10-13z"/><path class="w13" d="M3048 374l9-16-7-12-9 16zM2977 397l9-13-6-2-10 18zM2766 455l9-22-6 3-9 24z"/><path class="w12" d="M3003 426l10-54 8 13 9-8 9 4 9-7-7-12-9 40-8-25-9 23-9-13-9 20zM2986 384l8 38-6-26-8-14zM2932 437l9-37 9 7 9 23 9-32 9-1-7 3-8-2-9 0-9 5-9 0-9 15zM2914 402l9 27-6-2-9-33zM2757 485l9-30-6 5-9 6zM2662 499l10 31-7-31-9 11zM2633 510l10 11-7-7-10-5z"/><path class="w11" d="M2994 422l9 4-6-19-9-11zM2923 429l9 8-6-19-9 9zM2738 501l10-19 9 3-6-19-9 35-10-13zM2710 500l9-13-5 50-11-43zM2672 530l9-8 11 39-8-64-9 10-10-8zM2643 521l9 2 10-24-6 11-10 10-10-6z"/><path class="w14" d="M2905 382l9 20-6-8-9-4zM2841 416l9-5 9-23-6 11-10-7-9-6z"/><path class="w15" d="M2896 326l9 56-6 8-10-25zM2831 361l10 55-7-30-9-18z"/><path class="w17" d="M2868 353l10-33 9 12 9-6-7 39-9-39-9 47-9-18zM2784 345l10 38-6 33-10-50z"/><path class="w16" d="M2859 388l9-35-6 2-9 44zM2822 384l9-23-6 7-10 5zM2775 433l9-88-6 21-9 70z"/><path class="w19" d="M2812 321l10 63-7-11-10-78zM2794 383l9-63-7-22-8 118z"/><path class="w20" d="M2803 320l9 1-7-26-9 3z"/><path class="w10" d="M2719 487l10 18 9-4-6-13-9 44-9 5zM2701 557l9-57-7-6-8 40z"/><path class="w9" d="M2692 561l9-4-6-23-11-37z"/><path class="w12" d="M3054 404l9-27-6-19-9 16zM3037 363l8 51-6-33-9-4zM3010 427l9-61-6 6-10 54zM2993 385l8 30-7 7-8-38zM2939 429l9-11 9-12 8 15 9-8 9-3-6-13-9 1-9 32-9-23-9-7-9 37zM2920 437l9-9-6 1-9-27zM2763 494l9-33-6-6-9 30zM2658 510l10 5 10-5-6 20-10-31-10 24zM2639 514l10 17-6-10-10-11z"/><path class="w11" d="M3045 414l9-10-6-30-9 7zM3001 415l9 12-7-1-9-4zM2929 428l10 1-7 8-9-8zM2745 530l9-21 9-15-6-9-9-3-10 19zM2716 525l10 6 9-4-6-22-10-18-9 13zM2649 531l9-21-6 13-9-2z"/><path class="w13" d="M3019 366l9 25 9-28-7 14-9 8-8-13zM2983 410l10-25-7-1-9 13zM2911 405l9 32-6-35-9-20zM2772 461l10-1-7-27-9 22z"/><path class="w15" d="M2902 369l9 36-6-23-9-56zM2856 412l10-48-7 24-9 23zM2837 348l10 75-6-7-10-55zM2782 460l9-27-7-88-9 88z"/><path class="w17" d="M2893 329l9 40-6-43-9 6zM2875 376l9-24-6-32-10 33zM2828 362l9-14-6 13-9 23z"/><path class="w18" d="M2884 352l9-23-6 3-9-12zM2819 334l9 28-6 22-10-63zM2800 393l9-29-6-44-9 63z"/><path class="w16" d="M2866 364l9 12-7-23-9 35zM2791 433l9-40-6-10-10-38z"/><path class="w14" d="M2847 423l9-11-6-1-9 5z"/><path class="w19" d="M2809 364l10-30-7-13-9-1z"/><path class="w10" d="M2735 527l10 3-7-29-9 4zM2678 510l10 54-7-42-9 8z"/><path class="w9" d="M2708 575l8-50-6-25-9 57z"/><path class="w7" d="M2699 622l9-47-7-18-9 4z"/><path class="w8" d="M2688 564l11 58-7-61-11-39z"/><path class="w11" d="M3060 409l9-11-6-21-9 27zM3007 432l10-30-7 25-9-12zM2936 423l9 43 9-46-6-2-9 11-10-1zM2722 506l10 9-6 16-10-6zM2684 524l10-9-6 49-10-54z"/><path class="w10" d="M3051 437l9-28-6-5-9 10zM2732 515l10 2 9 0 10 15 9-16-7-22-9 15-9 21-10-3-9 4zM2713 550l9-44-6 19-8 50z"/><path class="w12" d="M3044 351l7 86-6-23-8-51zM3017 402l9-30-7-6-9 61zM2999 368l8 64-6-17-8-30zM2954 420l9 14 9-21 9 15 9-21-7 3-9 3-9 8-8-15-9 12zM2927 429l9-6-7 5-9 9zM2770 516l9-39 9-3-6-14-10 1-9 33zM2645 513l10 27 9-35 10-12 10 31-6-14-10 5-10-5-9 21-10-17z"/><path class="w13" d="M3026 372l8 30 10-51-7 12-9 28-9-25zM2990 407l9-39-6 17-10 25zM2918 384l9 45-7 8-9-32zM2788 474l10-30-7-11-9 27z"/><path class="w15" d="M2909 342l9 42-7 21-9-36zM2863 409l9-37-6-8-10 48zM2844 375l10 49-7-1-10-75zM2798 444l9-33-7-18-9 40z"/><path class="w17" d="M2900 363l9-21-7 27-9-40z"/><path class="w19" d="M2881 359l10-72 9 76-7-34-9 23-9 24zM2825 325l9-4-6 41-9-28z"/><path class="w16" d="M2872 372l9-13-6 17-9-12zM2807 411l9-30-7-17-9 29z"/><path class="w14" d="M2854 424l9-15-7 3-9 11z"/><path class="w18" d="M2834 321l10 54-7-27-9 14zM2816 381l9-56-6 9-10 30z"/><path class="w8" d="M2694 515l10 57 9-22-5 25-9 47-11-58z"/><path class="w11" d="M3058 403l9 2 9-18-7 11-9 11-9 28zM3014 418l9-9-6-7-10 30zM2942 452l9 5 9-17 9-4-6-2-9-14-9 46-9-43zM2776 532l9-54-6-1-9 39zM2719 536l10-25 9 14 10 6-6-14-10-2-10-9-9 44zM2700 504l10 41-6 27-10-57zM2662 552l9-17-7-30-9 35z"/><path class="w12" d="M3050 378l8 25-7 34-7-86zM3032 390l9 26-7-14-8-30zM3005 409l9 9-7 14-8-64zM2969 436l9-6 9-3 10-21-7 1-9 21-9-15-9 21zM2933 436l9 16-6-29-9 6zM2671 535l9-15 10-20 10 4-6 11-10 9-10-31-10 12zM2651 501l11 51-7-12-10-27z"/><path class="w13" d="M3041 416l9-38-6-27-10 51zM3023 409l9-19-6-18-9 30zM2997 406l8 3-6-41-9 39zM2785 478l9-30 10 36-6-40-10 30-9 3z"/><path class="w14" d="M2925 356l8 80-6-7-9-45zM2860 427l9-41-6 23-9 15zM2804 484l9-60-6-13-9 33z"/><path class="w17" d="M2916 320l9 36-7 28-9-42z"/><path class="w18" d="M2906 326l10-6-7 22-9 21zM2841 392l9-17-6 0-10-54zM2822 374l10-24-7-25-9 56z"/><path class="w20" d="M2888 362l9-71 9 35-6 37-9-76-10 72z"/><path class="w16" d="M2878 411l10-49-7-3-9 13zM2813 424l9-50-6 7-9 30z"/><path class="w15" d="M2869 386l9 25-6-39-9 37zM2850 375l10 52-6-3-10-49z"/><path class="w19" d="M2832 350l9 42-7-71-9 4z"/><path class="w10" d="M2767 533l9-1-6-16-9 16zM2748 531l10 53-7-67-9 0z"/><path class="w9" d="M2758 584l9-51-6-1-10-15zM2710 545l9-9-6 14-9 22z"/><path class="w12" d="M3066 384l8 30 9-19-7-8-9 18-9-2zM3012 381l9 58 9-42 9 17 9-22 9 1-7-15-9 38-9-26-9 19-9 9-9-9zM2985 428l9-12-7 11-9 3zM2940 409l9 39-7 4-9-16zM2792 501l9-19-7-34-9 30zM2678 550l8-48 11 40 9-20-6-18-10-4-10 20-9 15zM2657 527l11 17-6 8-11-51z"/><path class="w13" d="M3057 393l9-9-8 19-8-25zM2994 416l9-30 9-5-7 28-8-3-10 21zM2801 482l9-17 10-29-7-12-9 60-10-36z"/><path class="w11" d="M2949 448l9 15 9-3 9 6 9-38-7 2-9 6-9 4-9 17-9-5zM2783 528l9-27-7-23-9 54zM2735 548l10-11-7-12-9-14zM2706 522l10 26-6-3-10-41zM2668 544l10 6-7-15-9 17z"/><path class="w14" d="M2931 408l9 1-7 27-8-80z"/><path class="w17" d="M2922 335l9 73-6-52-9-36zM2829 381l9 14 10-1-7-2-9-42-10 24z"/><path class="w18" d="M2913 365l9-30-6-15-10 6z"/><path class="w20" d="M2894 344l10-39 9 60-7-39-9-35-9 71z"/><path class="w15" d="M2866 415l10-23 9 56 9-104-6 18-10 49-9-25-9 41z"/><path class="w16" d="M2848 394l9-16 9 37-6 12-10-52-9 17zM2820 436l9-55-7-7-9 50z"/><path class="w9" d="M2774 571l9-43-7 4-9 1z"/><path class="w6" d="M2755 582l10 69 9-80-7-38-9 51-10-53z"/><path class="w10" d="M2745 537l10 45-7-51-10-6zM2716 548l10-2 9 2-6-37-10 25-9 9z"/><path class="w12" d="M3072 381l8 29 10-18-7 3-9 19-8-30zM3028 386l8 25 9 6 9-13-6-12-9 22-9-17-9 42zM2991 449l10-29-7-4-9 12zM2882 446l9 91-6-89-9-56zM2798 498l9-26 10 35-7-42-9 17-9 19zM2683 529l10-16 10 16-6 13-11-40-8 48z"/><path class="w13" d="M3054 404l9-9 9-14-6 3-9 9-9-1zM3001 420l9 6 9-21 9-19-7 53-9-58-9 5-9 30zM2947 422l9 10-7 16-9-39zM2891 537l10-119-7-74-9 104zM2817 507l9-58-6-13-10 29z"/><path class="w10" d="M2973 459l9 26 9-36-6-21-9 38-9-6zM2779 512l10 28-6-12-9 43zM2732 538l10 7 9 4-6-12-10 11-9-2z"/><path class="w11" d="M2956 432l8 22 9 5-6 1-9 3-9-15zM2789 540l9-42-6 3-9 27zM2703 529l10 12 9-14 10 11-6 8-10 2-10-26-9 20zM2664 553l10 3 9-27-5 21-10-6-11-17z"/><path class="w14" d="M2938 381l9 41-7-13-9-1z"/><path class="w16" d="M2929 341l9 40-7 27-9-73zM2835 406l10 10 9-19 10 29-7-48-9 16-10 1-9-14z"/><path class="w18" d="M2919 356l10-15-7-6-9 30zM2901 418l9-73-6-40-10 39z"/><path class="w19" d="M2910 345l9 11-6 9-9-60z"/><path class="w15" d="M2864 426l9-3 9 23-6-54-10 23-9-37zM2826 449l9-43-6-25-9 55z"/><path class="w7" d="M2771 584l8-72-5 59-9 80z"/><path class="w6" d="M2761 590l10-6-6 67-10-69z"/><path class="w9" d="M2751 549l10 41-6-8-10-45z"/><path class="w12" d="M3079 405l9-14 8 11-6-10-10 18-8-29zM2998 428l9 9 9-11 9-1 9 23 9-46-7 9-8-25-9 19-9 21-9-6-10 29zM2953 457l9-10 9 13-7-6-8-22-9-10zM2879 449l10 94-7-97-9-23zM2805 511l9-21 9 8 10-27-7-22-9 58-10-35-9 26zM2699 493l11 68-7-32-10-16zM2680 544l9-40-6 25-9 27z"/><path class="w13" d="M3043 402l9-16 9 12 9 3 9 4-7-24-9 14-9 9-9 13-9-6zM2689 504l10-11-6 20-10 16z"/><path class="w10" d="M2980 477l9 5 9-54-7 21-9 36-9-26zM2776 524l10-13-7 1-8 72z"/><path class="w11" d="M2971 460l9 17-7-18-9-5zM2786 511l9 29 10-29-7-13-9 42-10-28zM2710 561l9-9 10 6 9-34 10 27 9-48-6 46-9-4-10-7-10-11-9 14-10-12zM2670 550l10-6-6 12-10-3z"/><path class="w14" d="M2944 358l9 99-6-35-9-41zM2870 431l9 18-6-26-9 3zM2833 471l9-24-7-41-9 43z"/><path class="w16" d="M2935 417l9-59-6 23-9-40z"/><path class="w18" d="M2917 402l9-82 9 97-6-76-10 15-9-11z"/><path class="w15" d="M2907 481l10-79-7-57-9 73zM2842 447l9-11 10-4 9-1-6-5-10-29-9 19-10-10z"/><path class="w2" d="M2889 543l9 136 9-198-6-63-10 119-9-91z"/><path class="w8" d="M2768 597l8-73-5 60-10 6z"/><path class="w9" d="M2757 503l11 94-7-7-10-41z"/><path class="w13" d="M3085 403l9-11 10-22-8 32-8-11-9 14zM3050 425l8-1 10-42 8 24-6-5-9-3-9-12-9 16zM3023 435l9-43-7 33-9 1zM2914 481l9-90-6 11-10 79zM2839 504l10-18-7-39-9 24zM2696 558l9-32-6-33-10 11z"/><path class="w12" d="M3076 406l9-3-6 2-9-4zM3032 392l9 39 9-6-7-23-9 46-9-23zM3005 448l9-15 9 2-7-9-9 11-9-9zM2960 447l8 22-6-22-9 10zM2830 501l9 3-6-33-10 27zM2705 526l11 22-6 13-11-68zM2686 530l10 28-7-54-9 40z"/><path class="w11" d="M2996 440l9 8-7-20-9 54zM2968 469l10-2-7-7-9-13zM2886 457l9 32-6 54-10-94zM2802 547l9-53 10 39 9-32-7-3-9-8-9 21-10 29zM2783 527l9 16-6-32-10 13zM2735 536l9-1 10 9 10-16-7-25-9 48-10-27-9 34zM2677 583l9-53-6 14-10 6z"/><path class="w10" d="M2978 467l8 13 10-40-7 42-9-5-9-17zM2792 543l10 4-7-7-9-29zM2764 528l9 24 10-25-7-3-8 73-11-94zM2716 548l10 18 9-30-6 22-10-6-9 9z"/><path class="w14" d="M2951 378l9 69-7 10-9-99zM2867 448l10-11 9 20-7-8-9-18-9 1zM2849 486l9-66-7 16-9 11z"/><path class="w16" d="M2942 359l9 19-7-20-9 59z"/><path class="w18" d="M2923 391l10-54 9 22-7 58-9-97-9 82z"/><path class="w2" d="M2895 489l9 69 10-77-7 0-9 198-9-136z"/><path class="w15" d="M2858 420l9 28-6-16-10 4z"/><path class="w13" d="M3101 384l9 7-6-21-10 22zM3065 438l9-36 9 1-7 3-8-24-10 42zM3030 433l9-37 8 46-6-11-9-39-9 43zM2883 482l9-38 10 22-7 23-9-32-9-20z"/><path class="w12" d="M3083 403l8 42 10-61-7 8-9 11-9 3zM3047 442l9 0 9-4-7-14-8 1-9 6zM3003 434l9-5 9 4 9 0-7 2-9-2-9 15-9-8zM2966 451l9 20-7-2-8-22zM2911 462l9-44-6 63-10 77zM2827 521l9-45 10 1 9 4-6 5-10 18-9-3-9 32zM2693 542l9 6 10 8-7-30-9 32-10-28z"/><path class="w11" d="M2975 471l9 2 9-8 10-31-7 6-10 40-8-13-10 2zM2902 466l9-4-7 96-9-69zM2808 546l9-47 10 22-6 12-10-39-9 53zM2712 556l10 11 10-26 9-14 10 42 9-33 10 7 9-21 10 25-6-20-10 25-9-24-10 16-10-9-9 1-9 30-10-18-11-22zM2683 568l10-26-7-12-9 53z"/><path class="w14" d="M2957 411l9 40-6-4-9-69zM2855 481l9-27 10-9 9 37-6-45-10 11-9-28-9 66z"/><path class="w16" d="M2948 393l9 18-6-33-9-19z"/><path class="w17" d="M2930 379l9-4 9 18-6-34-9-22-10 54z"/><path class="w15" d="M2920 418l10-39-7 12-9 90z"/><path class="w10" d="M2789 547l10 11 9-12-6 1-10-4-9-16z"/><path class="w13" d="M3107 425l10-40-7 6-9-7zM3082 377l7 55-6-29-9-1zM3028 414l8 2 10-17 8 24-7 19-8-46-9 37-9 0zM2964 429l9 24-7-2-9-40zM2908 448l10-4-7 18-9 4zM2871 514l9-48 10 1 9-16-7-7-9 38-9-37-10 9zM2843 505l9-3-6-25-10-1z"/><path class="w12" d="M3089 432l10-26 8 19-6-41-10 61-8-42zM3071 461l11-84-8 25-9 36zM3054 423l9 25-7-6-9 0zM3009 452l9 14 10-52-7 19-9-4-9 5zM2973 453l9 23-7-5-9-20zM2852 502l10 1 9 11-7-60-9 27-9-4zM2824 520l9-3 10-12-7-29-9 45-10-22zM2776 533l10-8-7-3-9 21zM2738 563l9-47-6 11-9 14zM2699 559l10-8 9-9-6 14-10-8-9-6z"/><path class="w11" d="M3063 448l8 13-6-23-9 4zM2982 476l9-4 9 11 9-31-6-18-10 31-9 8-9-2zM2815 539l9-19-7-21-9 47zM2786 525l10 26-7-4-10-25zM2747 516l11 55 9-36 9-2-6 10-10-7-9 33-10-42zM2718 542l10 15 10 6-6-22-10 26-10-11zM2690 577l9-18-6-17-10 26z"/><path class="w15" d="M2955 371l9 58-7-18-9-18z"/><path class="w17" d="M2937 378l9-4 9-3-7 22-9-18-9 4z"/><path class="w16" d="M2927 432l10-54-7 1-10 39z"/><path class="w14" d="M2918 444l9-12-7-14-9 44zM2899 451l9-3-6 18-10-22z"/><path class="w10" d="M2796 551l9-27 10 15-7 7-9 12-10-11z"/><path class="w13" d="M3115 389l9 6-7-10-10 40zM3079 423l9-8 8 18-7-1-7-55-11 84zM3034 442l9-2 9-12 9-5-7 0-8-24-10 17-8-2zM2971 433l9 14-7 6-9-24zM2887 481l9-2 10-8 9 19 9-35-6-11-10 4-9 3-9 16-10-1z"/><path class="w12" d="M3096 433l9-4 10-40-8 36-8-19-10 26zM3061 423l9 10-7 15-9-25zM3007 448l9 13 9-31 9 12-6-28-10 52-9-14-9 31zM2980 447l8 29-6 0-9-23zM2878 527l9-46-7-15-9 48zM2821 514l9-5 10-1 9 13 10-40 9 41-6-19-10-1-9 3-10 12-9 3-9 19zM2744 551l10-4-7-31-9 47zM2705 559l10 2 10-19 10 25-7-10-10-15-9 9-10 8z"/><path class="w11" d="M3070 433l9-10-8 38-8-13zM2988 476l10-12 9-16-7 35-9-11-9 4zM2868 522l10 5-7-13-9-11zM2812 549l9-35-6 25-10-15zM2754 547l10 2 9-1 10-8 10 9 9 22-6-20-10-26-10 8-9 2-9 36-11-55zM2735 567l9-16-6 12-10-6zM2696 569l9-10-6 0-9 18z"/><path class="w15" d="M2961 437l10-4-7-4-9-58zM2934 415l9 23-6-60-10 54z"/><path class="w16" d="M2943 438l9-44 9 43-6-66-9 3-9 4z"/><path class="w14" d="M2924 455l10-40-7 17-9 12z"/><path class="w10" d="M2802 571l10-22-7-25-9 27z"/><path class="w13" d="M3121 437l9-35-6-7-9-6zM3041 450l9-41 9 24 9-6 9 0 9-1 9-7-7-4-9 8-9 10-9-10-9 5-9 12-9 2zM2977 461l9-17-6 3-9-14zM2931 496l9-26 9 24-6-56-9-23-10 40zM2893 503l10-38 9 16-6-10-10 8-9 2z"/><path class="w12" d="M3095 419l8 16 9-7 9 9-6-48-10 40-9 4-8-18zM3004 467l9-1 9-9 10-8 9 1-7-8-9-12-9 31-9-13-9 16zM2986 444l9 45-7-13-8-29zM2912 481l9 40 10-25-7-41-9 35-9-19zM2828 534l9-37 9 27 10-6 9-3 10 6-7 1-9-41-10 40-9-13-10 1-9 5zM2741 571l9-39 10 5 10 7-6 5-10-2-10 4-9 16zM2722 573l9-15-6-16-10 19zM2702 553l10 21-7-15-9 10z"/><path class="w11" d="M2995 489l9-22-6-3-10 12zM2875 521l9 6 9-24-6-22-9 46-10-5zM2770 544l10 3 9 7 10 9 9-32 10 7 10-4-7-20-9 35-10 22-9-22-10-9-10 8-9 1zM2731 558l10 13-6-4-10-25zM2712 574l10-1-7-12-10-2z"/><path class="w14" d="M2968 425l9 36-6-28-10 4zM2949 494l10-59-7-41-9 44z"/><path class="w15" d="M2959 435l9-10-7 12-9-43z"/><path class="w12" d="M3127 460l10-36-7-22-9 35zM3083 439l9 24 9-14 9-10 8 13-6-24-9 7-8-16-9 7-9 1zM3020 472l9-1 9-25 9 4-6 0-9-1-10 8-9 9zM2919 485l9-2 9-5 9 56-6-64-9 26-10 25-9-40zM2891 511l9-7-7-1-9 24zM2815 531l9-7 10-2 10 13 9-21 9-3 10 26-7-22-9 3-10 6-9-27-9 37-10 4-10-7zM2738 576l9-28 10 9 10 1 9-22 10 28-6-17-10-3-10-7-10-5-9 39-10-13zM2709 585l9-36 10 30-6-6-10 1-10-21z"/><path class="w11" d="M3118 452l9 8-6-23-9-9zM3011 492l9-20-7-6-9 1zM2993 478l8 71-6-60-9-45zM2872 537l9-3 10-23-7 16-9-6-10-6zM2786 564l10-13 10 5 9-25-7 0-9 32-10-9-9-7zM2728 579l10-3-7-18-9 15z"/><path class="w13" d="M3065 447l10-31 8 23-6-12-9 0-9 6zM2984 417l9 61-7-34-9 17zM2965 513l10-53-7-35-9 10zM2900 504l9-11 10-8-7-4-9-16-10 38z"/><path class="w14" d="M3047 450l10-65 8 62-6-14-9-24-9 41zM2975 460l9-43-7 44-9-36z"/><path class="w10" d="M3001 549l10-57-7-25-9 22z"/><path class="w7" d="M2946 534l9 117 10-138-6-78-10 59-9-24z"/><path class="w12" d="M3134 445l10-56-7 35-10 36zM3107 463l10-27-7 3-9 10zM3090 433l8 39-6-9-9-24zM3072 466l9-17-6-33-10 31zM3027 473l9-5 9-2-7-20-9 25-9 1zM2990 463l9 53-6-38-9-61zM2972 482l9-19-6-3-10 53zM2944 482l9 4-7 48-9-56zM2916 534l10-66-7 17-10 8zM2888 510l9 5 10 15-7-26-9 7-10 23zM2744 560l10-8 10 24 9-28 10-2 10 4 9-8 10 3 9-10 10 2 10-7 9 11 10-24 9-11 10 36-7-5-10-26-9 3-9 21-10-13-10 2-9 7-9 25-10-5-10 13-10-28-9 22-10-1-10-9-9 28zM2715 583l9-25 11 18-7 3-10-30-9 36z"/><path class="w11" d="M3117 436l8 29 9-20-7 15-9-8-8-13zM3098 472l9-9-6-14-9 14zM3017 521l10-48-7-1-9 20zM2907 530l9 4-7-41-9 11zM2879 542l9-32-7 24-9 3zM2735 576l9-16-6 16-10 3z"/><path class="w13" d="M3081 449l9-16-7 6-8-23zM3045 466l10-38-8 22-9-4zM2926 468l9 33 9-19-7-4-9 5-9 2z"/><path class="w14" d="M3055 428l9-44 8 82-7-19-8-62-10 65zM2981 463l9 0-6-46-9 43z"/><path class="w5" d="M2999 516l7 134 11-129-6-29-10 57-8-71z"/><path class="w6" d="M2953 486l9 52 10-56-7 31-10 138-9-117z"/><path class="w13" d="M3141 451l10-47-7-15-10 56zM2988 438l9 40-7-15-9 0zM2923 497l9-12 9 31 10-50 9 10 10-35 9 5-7 36-10 56-9-52-9-4-9 19-9-33-10 66zM2857 510l9-26 10 42-7-20-9 11-10 24z"/><path class="w11" d="M3106 451l8 14 9-7 9 6 9-13-7-6-9 20-8-29-10 27-9 9zM3024 482l10-25-7 16-10 48zM2904 502l9 58 10-63-7 37-9-4-10-15z"/><path class="w12" d="M3079 449l9 7 8 10 10-15-8 21-8-39-9 16-9 17zM3034 457l8 19 9 4 10-6-6-46-10 38-9 2-9 5zM2997 478l9 7-7 31-9-53zM2876 526l9-9 10 20 9-35-7 13-9-5-9 32-10-36zM2722 597l9-31 10 33 9-49 10 15 10-1 10-7 10-2 9-15 10-3 10 32 9-30 10-1 9-5 10-23-7 31-9-11-10 7-10-2-9 10-10-3-9 8-10-4-10 2-9 28-10-24-10 8-9 16-11-18-9 25z"/><path class="w14" d="M3061 474l10-91 8 66-7 17-8-82-9 44zM2979 446l9-8-7 25-9 19z"/><path class="w5" d="M3006 485l8 81 10-84-7 39-11 129-7-134z"/><path class="w12" d="M3148 454l10-39-7-11-10 47zM3085 467l10-12 9-9 9 2 8 16 10-38 8 9-7 29-9-6-9 7-8-14-10 15-8-10-9-7zM3031 491l9-11 9 1 9-12 10-7-7 12-10 6-9-4-8-19-10 25zM2882 523l10 17 9-15 10 10-7-33-9 35-10-20-9 9zM2815 553l10 0 10-5 9-7 10 3-7-11-9 5-10 1-9 30-10-32zM2767 545l10 26 9-17 10-6-6 7-10 2-10 7-10 1zM2748 590l9-40-7 0-9 49zM2728 579l10 5-7-18-9 31z"/><path class="w11" d="M3139 435l9 19-7-3-9 13zM3013 441l9 65-8 60-8-81zM2911 535l9-2 9-7-6-29-10 63-9-58zM2738 584l10 6-7 9-10-33z"/><path class="w14" d="M3068 462l9-34 8 39-6-18-8-66-10 91zM2985 470l10-4-7-28-9 8zM2958 427l9 35-7 14-9-10z"/><path class="w10" d="M3022 506l9-15-7-9-10 84z"/><path class="w13" d="M2995 466l9 15 9-40-7 44-9-7-9-40zM2929 526l10-46 9 21 10-74-7 39-10 50-9-31-9 12zM2854 544l9-38 10 40 9-23-6 3-10-42-9 26-10 23zM2796 548l10-26 9 31-6-16-10 3-9 15zM2757 550l10-5-7 20-10-15z"/><path class="w15" d="M2967 462l10-37 8 45-6-24-9-5-10 35z"/><path class="w12" d="M3093 455l8 6 9 21 9-29 9-7 9 7 9-5 9 10 9-22-6-21-10 39-9-19-8-9-10 38-8-16-9-2-9 9-10 12zM3038 472l9-9 9 10 9-12-7 8-9 12-9-1-9 11zM2822 543l10 12 9-6 10 6 9 10 10-46 9 41 10-40 9 8 10-1 9 22-6-14-10-10-9 15-10-17-9 23-10-40-9 38-10-3-9 7-10 5-10 0zM2773 547l10 41 10-10 10-10-7-20-10 6-9 17-10-26zM2734 588l10-12 10 18 10-33-7-11-9 40-10-6-10-5z"/><path class="w13" d="M3065 461l10-13 9 10 9-3-8 12-8-39-9 34-10 7zM3002 452l8 62 10-61 8 60-6-7-9-65-9 40-9-15zM2936 526l10-36 9 15-7-4-9-21-10 46zM2803 568l9-28 10 3-7 10-9-31-10 26zM2764 561l9-14-6-2-10 5z"/><path class="w11" d="M3028 513l10-41-7 19-9 15zM2917 549l10-13 9-10-7 0-9 7-9 2z"/><path class="w14" d="M2992 457l10-5-7 14-10 4zM2955 505l10-50-7-28-10 74z"/><path class="w15" d="M2983 434l9 23-7 13-8-45zM2965 455l9-29-7 36-9-35z"/><path class="w16" d="M2974 426l9 8-6-9-10 37z"/><path class="w12" d="M3153 462l9-19 9 6-7-13-9 22-9-10zM3126 477l10-42 7 52-6-34-9-7-9 7zM3090 470l9-1 9 18-7-26-8-6-9 3zM3044 516l10-29 9 8 9-5-7-29-9 12-9-10-9 9zM3027 472l8 44-7-3-8-60zM2933 527l10-43-7 42-9 10zM2867 571l10-46 9 16 10-6 9 13 10-4 9-11-7 16-9-22-10 1-9-8-10 40-9-41-10 46zM2780 568l10 15 10-21 10 37 9-14 10-20 9-17 10-4 9 12-6-1-10-6-9 6-10-12-10-3-9 28-10 10-10 10-10-41zM2761 592l9-11-6-20-10 33zM2741 606l10 7-7-37-10 12z"/><path class="w11" d="M3143 487l10-25-7-14-9 5zM3108 487l9-7 9-3-7-24-9 29-9-21zM3035 516l9 0-6-44-10 41zM2924 533l9-6-6 9-10 13zM2857 556l10 15-7-6-9-10zM2751 613l10-21-7 2-10-18z"/><path class="w13" d="M3072 490l9-18 9-2-6-12-9-10-10 13zM3008 475l9 8 10-11-7-19-10 61-8-62zM2943 484l9 24 9 15 10-16-6-52-10 50-9-15-10 36zM2770 581l10-13-7-21-9 14z"/><path class="w14" d="M2999 465l9 10-6-23-10 5zM2971 507l10-33-7-48-9 29z"/><path class="w15" d="M2981 474l9-13 9 4-7-8-9-23-9-8z"/><path class="w12" d="M3159 478l10-35 9-5-7 11-9-6-9 19zM3132 492l10-16 9-20-8 31-7-52-10 42zM3052 492l9-16 9-1 9-4 9 27 9-22 9 1 9 10-7 0-9-18-9 1-9 2-9 18-9 5-9-8-10 29zM3034 465l8 53-7-2-8-44zM2959 495l9 35 9 3-6-26-10 16-9-15zM2931 532l9 1 10-3-7-46-10 43-9 6zM2835 571l10 19 10-39 9-9 10 28 9-24 10 35 9-51 10 0-7 18-9-13-10 6-9-16-10 46-10-15-9-12-10 4-9 17zM2777 616l10-48 9-1 10 6 10 8-6 18-10-37-10 21-10-15-10 13z"/><path class="w11" d="M3151 456l8 22-6-16-10 25zM3115 487l9-20 8 25-6-15-9 3-9 7zM3042 518l10-26-8 24-9 0zM2912 530l9 41 10-39-7 1-9 11-10 4zM2816 581l10 12 9-22-6-6-10 20-9 14zM2748 617l9-15 10 4 10 10-7-35-9 11-10 21-10-7z"/><path class="w13" d="M3006 503l9-22 9 45 10-61-7 7-10 11-9-8-9-10zM2977 533l10-70-6 11-10 33zM2950 530l9-35-7 13-9-24z"/><path class="w14" d="M2987 463l10 24 9 16-7-38-9-4-9 13z"/><path class="w13" d="M3175 466l10-31-7 3-9 5zM3059 485l9 3-7-12-9 16zM3004 476l8 26 10-4-7-17-9 22-9-16zM2984 522l10-22-7-37-10 70zM2909 531l10-2-7 1-10 0zM2793 572l10-6-7 1-9 1z"/><path class="w12" d="M3148 490l10-31 8 14 9-7-6-23-10 35-8-22-9 20zM3104 495l10-39 8 32 9-15-7-6-9 20-9-10-9-1zM3068 488l8 11 10-1 8 9-6-9-9-27-9 4-9 1zM3022 498l9-10 9 16 9 17 10-36-7 7-10 26-8-53-10 61-9-45zM2919 529l9 27 10-52 9 36 9 2 10-16 9 10 9-14-7 11-9-3-9-35-9 35-10 3-9-1-10 39-9-41zM2890 559l10-10 9-18-7-1-9 51-10-35zM2852 575l9-7 10-9 9 35-6-24-10-28-9 9-10 39zM2803 566l10 18 9-26 10 5 10 23-7-15-9 22-10-12-10-8-10-6zM2784 629l9-57-6-4-10 48z"/><path class="w11" d="M3131 473l8 28 9-11-6-14-10 16-8-25zM3094 507l10-12-7-19-9 22zM2880 594l10-35-7-13-9 24zM2842 586l10-11-7 15-10-19zM2754 616l10-12 10 15 10 10-7-13-10-10-10-4-9 15z"/><path class="w14" d="M2994 500l10-24-7 11-10-24z"/><path class="w12" d="M3164 480l10-8 9-15 8 5-6-27-10 31-9 7-8-14zM3129 466l9 21-7-14-9 15zM3047 491l9 26 9 3 9-7 9-6 9-5 10-23 9-13-7 29-10 12-8-9-10 1-8-11-9-3-10 36-9-17zM3019 529l10-28-7-3-10 4zM2954 523l9 1 9 20 10-1 9-8 10-30-7-5-10 22-9 14-9-10-10 16-9-2zM2897 575l9-2 10 8 9-23 10-11-7 9-9-27-10 2-9 18-10 10zM2800 613l10-13 10 2 9-35 10 33 10-19 9-6 10-8 10 19-7-27-10 9-9 7-10 11-10-23-10-5-9 26-10-18-10 6zM2761 602l9-19 10 28-6 8-10-15-10 12z"/><path class="w11" d="M3138 487l9-5 8 19 9-21-6-21-10 31-9 11-8-28zM2878 586l9-11 10 0-7-16-10 35-9-35zM2791 636l9-23-7-41-9 57z"/><path class="w13" d="M3111 466l9 4 9-4-7 22-8-32-10 39zM3029 501l9-6 9-4-7 13-9-16-9 10zM3011 467l8 62-7-27-8-26zM2935 547l9-31 10 7-7 17-9-36-10 52z"/><path class="w14" d="M3001 505l10-38-7 9-10 24z"/><path class="w10" d="M2780 611l11 25-7-7-10-10z"/><path class="w13" d="M3190 450l9 0-8 12-8-5zM3109 499l9-28 9 17 9-11-7-11-9 4-9-4-9 13zM3017 489l9 63-7-23-8-62zM2951 537l9 15-6-29-10-7zM2767 583l10 8-7-8-9 19z"/><path class="w12" d="M3172 453l8 49 10-52-7 7-9 15-10 8zM3136 477l9 16 9-28-7 17-9 5-9-21zM3090 511l10-20 9 8-7-20-10 23-9 5zM3026 552l9-20 9-13 10-6 9 2 9-12-7 17-9-3-9-26-9 4-9 6-10 28zM2960 552l10 1 9-9 10-20 9 5 9-4-6-20-10 30-9 8-10 1-9-20-9-1zM2922 569l10-23 9 39 10-48-7-21-9 31-10 11-9 23zM2894 558l9 6 10-10-7 19-9 2-10 0zM2826 605l10-20 10 3 9-30 10 22 10 3-7-16-10 8-9 6-10 19-10-33-9 35zM2777 591l10 25-7-5-10-28z"/><path class="w11" d="M3154 465l8 30 10-42-8 27-9 21-8-19zM3072 503l9 26 9-18-7-4-9 6-9 7zM2913 554l9 15-6 12-10-8zM2875 583l9 37 10-62-7 17-9 11-10-19zM2787 616l10-12 10-19 10 29 9-9-6-3-10-2-10 13-9 23-11-25z"/><path class="w14" d="M3007 525l10-36-6-22-10 38z"/><path class="w13" d="M3197 460l9-16-7 6-9 0zM3124 509l10-46-7 25-9-17zM3014 530l10-13 9-8-7 43-9-63-10 36zM2843 578l9-29 10 38-7-29-9 30-10-3zM2793 581l10-19-6 42-10 12zM2774 583l10 31-7-23-10-8z"/><path class="w12" d="M3134 463l8 46 10-25 10-28 7 46 9-12 9-2 10-28-7-10-10 52-8-49-10 42-8-30-9 28-9-16-9 11zM3097 512l9 15 9-21 9 3-6-38-9 28-9-8-10 20zM3033 509l9 10 10-16 8 28 10-20 9 18-7-26-9 12-9-2-10 6-9 13-9 20zM2958 569l9-4 10-40 9 35 9-13 10-4 9-13-7-5-9 4-9-5-10 20-9 9-10-1-9-15zM2901 596l9-22 10 13 9-45 10-1 9 21-7 23-9-39-10 23-9-15-10 10-9-6zM2862 587l10-7 9 27-6-24-10-3-10-22zM2803 562l10 59 10-21 10-25 10 3-7 7-10 20-9 9-10-29-10 19zM2784 614l9-33-6 35-10-25z"/><path class="w11" d="M3079 529l8 20 10-37-7-1-9 18-9-26zM2948 562l10 7-7-32-10 48zM2891 609l10-13-7-38-10 62z"/><path class="w10" d="M2881 607l10 2-7 11-9-37z"/><path class="w13" d="M3203 490l10-38-7-8-9 16zM3159 493l10-38-7 1-10 28zM3132 485l9 6-7-28-10 46zM3021 539l10-31 9 26 9-21 10-14 9 6-8 26-8-28-10 16-9-10-9 8-10 13zM3003 504l9 26-7 13-10 4zM2830 600l9-54 10 40 10-19 10 6 9-11-6 18-10 7-10-38-9 29-10-3-10 25zM2800 621l10-38-7-21-10 19zM2780 598l10 1-6 15-10-31z"/><path class="w12" d="M3169 455l7 47 11-44 7 39 9-7-6-30-10 28-9 2-9 12-7-46zM3141 491l8 18 10-16-7-9-10 25-8-46zM3122 519l10-34-8 24-9-3zM3068 505l8 33 10-18-7 9-9-18-10 20zM3012 530l9 9-7-9-9 13zM2974 566l10-19 9 14 10-57-8 43-9 13-9-35-10 40zM2898 567l9 1 10 6 10-17 9 45 10-40 9-11 9 26-6-8-10-7-9-21-10 1-9 45-10-13-9 22-10 13zM2878 562l10 24-7 21-9-27zM2810 583l10 56-7-18-10-59zM2790 599l10 22-7-40-9 33z"/><path class="w11" d="M3086 520l9-7 9 28 9-35 9 13-7-13-9 21-9-15-10 37-8-20zM2964 577l10-11-7-1-9 4zM2888 586l10-19-7 42-10-2zM2820 639l10-39-7 0-10 21z"/><path class="w13" d="M3210 499l11-69-8 22-10 38zM3166 480l9 1 10-15 9-13-7 5-11 44-7-47-10 38zM3047 527l9-13 10-2 9 12-7-19-9-6-10 14-9 21zM3010 526l9 15 9-31 9 34-6-36-10 31-9-9-9-26zM2953 537l9 7-7 7-9 11zM2837 600l9-25 10 39 10-47 10 21-7-15-10-6-10 19-10-40-9 54zM2787 609l10 6-7-16-10-1z"/><path class="w11" d="M3201 493l9 6-7-9-9 7zM3147 537l10-32-8 4-8-18zM3102 516l9 26 9-27-7-9-9 35-9-28zM3083 538l10-4-7-14-10 18z"/><path class="w12" d="M3194 453l7 40-7 4-7-39zM3157 505l9-25-7 13-10 16zM3120 515l9-6 10-17 8 45-6-46-9-6-10 34-9-13zM3093 534l9-18-7-3-9 7zM3075 524l8 14-7 0-8-33zM3037 544l10-17-7 7-9-26zM2962 544l9 24 10-12 10-17 9 27 10-40-7-22-10 57-9-14-10 19-10 11-9-26zM2876 588l9 19 10-4 10-1 9-15 10-3 9-5 10-20 10-22-7 25-10 40-9-45-10 17-10-6-9-1-10 19-10-24-9 11zM2797 615l10 10 10-17 10 15 10-23-7 0-10 39-10-56-10 38-10-22z"/><path class="w12" d="M3217 512l10-39-6-43-11 69zM3200 494l8 6-7-7-7-40zM3137 505l9-5 9-2 10-29-8 36-10 32-8-45-10 17zM3100 534l9-11-7-7-9 18zM3072 519l9 24-6-19-9-12zM3035 555l9-20 10-1-7-7-10 17-9-34zM2997 549l9 33 11-62-7 6-10 40-9-27zM2969 543l9 39 10-31-7 5-10 12-9-24zM2911 597l10-5 10-10 9 15 10-31-7-7-10 20-9 5-10 3-9 15zM2863 596l10 7 9 19 10-21-7 6-9-19-10-21-10 47zM2794 631l10-17 10-15 10 7 10 8 9-7-6-7-10 23-10-15-10 17-10-10-10-6z"/><path class="w11" d="M3208 500l9 12-7-13-9-6zM3109 523l8 30 9 6 11-54-8 4-9 6-9 27-9-26zM3081 543l9 8 10-17-7 0-10 4-8-14zM2892 601l10 17 9-21-6 5-10 1-10 4z"/><path class="w13" d="M3165 469l9 8 8 18 9-6 9 5-6-41-9 13-10 15-9-1-9 25zM3054 534l9-7 9-8-6-7-10 2-9 13zM3017 520l9 22 9 13-7-45-9 31-9-15zM2988 551l9-2-6-10-10 17zM2950 566l9-3 10-20-7 1-9-7-10 22zM2843 607l10-13 10 2-7 18-10-39-9 25z"/><path class="w11" d="M3216 501l8 14 10-29-7-13-10 39-9-12zM3134 550l10-42-7-3-11 54zM3116 526l9 12-8 15-8-30zM3088 541l9 7 10-15-7 1-10 17-9-8zM2909 604l9-3-7-4-9 21z"/><path class="w12" d="M3189 498l9 1 10-27 8 29-8-1-8-6-9-5-9 6zM3107 533l9-7-7-3-9 11zM3070 550l9 13 9-22-7 2-9-24-9 8zM2976 560l9 12 10-7 9 0 10-5 9-7 9 16 10-41 9 43 10-63-7 26-10 1-9 20-9-13-9-22-11 62-9-33-9 2-10 31-9-39zM2918 601l10-3 10-24 9 13 10-6 9-6-7-12-9 3-10 31-9-15-10 10-10 5zM2860 601l10 25 9-16 10-9 10-7 10 10-7 14-10-17-10 21-9-19-10-7-10-2zM2830 624l10 13 10-47-7 17-9 7-10-8zM2801 645l10-20-7-11-10 17z"/><path class="w13" d="M3144 508l9-21 9 9 9 2 9-14 9 14-7-3-8-18-9-8-10 29-9 2-9 5zM3061 508l9 42-7-23-9 7zM2966 575l10-15-7-17-10 20zM2850 590l10 11-7-7-10 13zM2811 625l9-19 10 18-6-18-10-7-10 15z"/><path class="w10" d="M3125 538l9 12-8 9-9-6z"/><path class="w12" d="M3231 514l11-52-8 24-10 29zM3178 505l9 7 8 14 10-14 9-4 8 10-6-17-8-29-10 27-9-1-9-14-9 14zM3142 522l8 9 10-21-7-23-9 21-10 42zM3114 514l9 34 9-19-7 9-9-12-9 7zM3077 552l9-23 9 23-7-11-9 22-9-13zM3039 571l10-7 9-25-7 32-9-43-10 41zM2954 597l10-30 9 28 10-39 9 34 10-8 9 1 10-30 9 31-7-31-9 7-10 5-9 0-10 7-9-12-10 15-9 6-10 6zM2925 620l10-48-7 26-10 3zM2867 623l10-30 9 29 10-30 10 34-7-32-10 7-10 9-9 16-10-25zM2837 620l10 17 10-28-7-19-10 47-10-13zM2807 633l11 27 9-39-7-15-9 19-10 20z"/><path class="w11" d="M3222 518l9-4-7 1-8-14zM3132 529l10-7-8 28-9-12zM3095 552l9 25 10-63-7 19-10 15-9-7zM3030 584l9-13-7-2-9-16zM2906 626l9-4 10-2-7-19-9 3-10-10z"/><path class="w13" d="M3160 510l9-16 9 11-7-7-9-2-9-9zM3058 539l10-23 9 36-7-2-9-42-10 63zM2935 572l10-15 9 40-7-10-9-13-10 24zM2857 609l10 14-7-22-10-11zM2827 621l10-1-7 4-10-18z"/><path class="w12" d="M3238 525l11-47-7-16-11 52zM3185 520l8 10 11-51 8 34-7-1-10 14-8-14-9-7zM3157 544l10-16-7-18-10 21zM3112 540l9 3 9-6 9 9 9 4-6-28-10 7-9 19-9-34-10 63zM3075 540l8 51 10-56 9 20-7-3-9-23-9 23-9-36zM3055 585l10-35-7-11-9 25zM3018 594l10-26 9 12-7 4-9-31-10 30zM2980 617l10-71 9 68-7-24-9-34-10 39zM2961 602l9 8-6-43-10 30zM2922 617l10-26-7 29-10 2zM2864 632l10 25 9-31 10-12 10-5 10 6-7 11-10-34-10 30-9-29-10 30-10-14zM2814 603l10 27 10-9 10 53-7-54-10 1-9 39-11-27z"/><path class="w11" d="M3212 513l8 21 9 3 9-12-7-11-9 4-8-10-9 4zM3148 550l9-6-7-13-8-9zM3102 555l10-15-8 37-9-25zM3037 580l9 36 9-31-6-21-10 7-9 13zM2999 614l9-21 10 1-7-11-9-1-10 8zM2970 610l10 7-7-22-9-28zM2913 615l9 2-7 5-9 4zM2844 674l10-6 10-36-7-23-10 28-10-17z"/><path class="w13" d="M3167 528l9-25 9 17-7-15-9-11-9 16zM3065 550l10-10-7-24-10 23zM2952 569l9 33-7-5-9-40zM2932 591l10-23-7 4-10 48z"/><path class="w14" d="M2942 568l10 1-7-12-10 15z"/></g>
<path d="M1402.3 450.8L1648.8 358.2M1238.6 322.1L1402.3 450.8M1238.6 322.1L1230.1 124.5M1423.7 446.7L1418.4 442.5M1385.9 442.7L1392.3 440.3M1479.1 425.9L1473.6 421.8M1348.6 413.3L1355 411M1532.9 405.6L1527.4 401.7M1312.7 385.1L1319.1 382.8M1585.4 385.9L1579.8 382.1M1278.1 357.9L1284.6 355.7M1636.4 366.7L1630.8 362.9M1244.8 331.6L1251.3 329.5M1233 291.7L1239.5 289.6M1231.5 256.1L1238 254M1229.9 219.9L1236.4 217.9M1228.3 182.7L1234.8 180.8M1226.6 144.4L1233.2 142.5" stroke="#111" stroke-width="0.85" fill="none"/>
<g class="tk" font-size="14"><text x="1429.3" y="471.5">−10</text><text x="1378" y="466.5">−10</text><text x="1484.3" y="450.4">−5</text><text x="1340.7" y="436.7">−5</text><text x="1537.9" y="429.8">0</text><text x="1304.9" y="408">0</text><text x="1590" y="409.7">5</text><text x="1270.3" y="380.3">5</text><text x="1640.8" y="390.1">10</text><text x="1237" y="353.7">10</text></g>
<text class="al" x="1552.5" y="450.3" font-size="16.4">x</text>
<text class="al" x="1284.2" y="423" font-size="16.4">y</text>
<text class="zl" transform="translate(1212.5 224.1) rotate(87.5)" font-size="15.6">Error</text>
<linearGradient id="g2" x1="0" y1="0" x2="0" y2="1"><stop offset="0%" stop-color="#b40426"/><stop offset="6.2%" stop-color="#ca3b37"/><stop offset="12.5%" stop-color="#dd5f4b"/><stop offset="18.8%" stop-color="#eb7d62"/><stop offset="25%" stop-color="#f4987a"/><stop offset="31.2%" stop-color="#f7b093"/><stop offset="37.5%" stop-color="#f5c4ac"/><stop offset="43.8%" stop-color="#ecd3c5"/><stop offset="50%" stop-color="#dddcdc"/><stop offset="56.2%" stop-color="#ccd9ed"/><stop offset="62.5%" stop-color="#b9d0f9"/><stop offset="68.8%" stop-color="#a3c2fe"/><stop offset="75%" stop-color="#8db0fe"/><stop offset="81.2%" stop-color="#779af7"/><stop offset="87.5%" stop-color="#6282ea"/><stop offset="93.8%" stop-color="#4e68d8"/><stop offset="100%" stop-color="#3b4cc0"/></linearGradient>
<rect x="1673.2" y="104.4" width="19.7" height="289.1" fill="url(#g2)" stroke="#111" stroke-width="0.85"/>
<path d="M1692.9 353.1h3.3M1692.9 301.3h3.3M1692.9 249.5h3.3M1692.9 197.7h3.3M1692.9 145.8h3.3" stroke="#111" stroke-width="0.85" fill="none"/>
<g class="cb" font-size="12.0"><text x="1699.8" y="356.7">−2</text><text x="1699.8" y="304.9">−1</text><text x="1699.8" y="253">0</text><text x="1699.8" y="201.2">1</text><text x="1699.8" y="149.4">2</text></g>
<text class="cb" font-size="12.0" x="1693" y="101.4" text-anchor="end">×10<tspan dy="-4.6" font-size="8.4">−4</tspan></text>
<text class="cap" transform="translate(1459.6 543) scale(1.06 1)" font-size="42" textLength="257" lengthAdjust="spacing">(c) HNO Error</text>
</g>
<g id="pd">
<path d="M642.4 911.4L882.6 832M882.6 832L1059.6 948.2M633.7 710.5L883.9 639.5M883.9 639.5L1068.7 743.5M882.6 832L883.9 639.5M1059.6 948.2L1068.7 743.5M808.9 1042.3L642.4 911.4M808.9 1042.3L1059.6 948.2M642.4 911.4L633.7 710.5" stroke="#f0f0f0" stroke-width="0.9" fill="none"/>
<path d="M827.2 1035.4L659.9 905.7M659.9 905.7L652 705.3M796.4 1032.5L1046.4 939.6M1046.4 939.6L1054.9 735.8M883.4 1014.3L713.5 887.9M713.5 887.9L708 689.4M758.5 1002.7L1006.2 913.2M1006.2 913.2L1012.9 712.1M938.1 993.8L765.9 870.6M765.9 870.6L762.5 673.9M722 974L967.5 887.7M967.5 887.7L972.4 689.3M991.4 973.8L817 853.7M817 853.7L815.7 658.8M686.9 946.4L930 863.1M930 863.1L933.3 667.3M1043.3 954.3L866.9 837.2M866.9 837.2L867.6 644.1M653 919.8L893.9 839.4M893.9 839.4L895.7 646.1M640.8 874.1L882.8 796.2M882.8 796.2L1061.3 910.2M639.1 835.4L883.1 759.1M883.1 759.1L1063 870.8M637.4 795.5L883.4 720.8M883.4 720.8L1064.9 830.2M635.7 754.7L883.6 681.7M883.6 681.7L1066.7 788.6M633.9 713.7L883.9 642.5M883.9 642.5L1068.6 746.7" stroke="#b6b6b6" stroke-width="0.85" fill="none"/>
<g transform="scale(0.5)" stroke-width="1.3" stroke-linejoin="round"><path class="v1" d="M1754 1688l8-5-6 4-8 3zM1666 1723l8-8 8 2-6-5-8-6-8 13zM1592 1744l9-2 8 0-6-10-8 1-8 11zM1517 1756l9-2 8 10-5-3-9-1-8 1zM1450 1791l8-9 9-2 8-4 8-10 9 2 8-4-5-7-9 7-8 1-8 5-9 5-8 9-9 6z"/><path class="v0" d="M1682 1717l8-5 8-3 8-3 8-2 8-2 8-1 8-5 8 1 8-9-6 2-8 1-8 4-7-3-8 7-8 2-8-2-8 10-9 2-8 1zM1609 1742l8-2 8-3 8-5 9 0 8-3 8-5 8-1-6-4-8 3-8-1-8 1-8 5-8 5-9-2-8 2zM1534 1764l9-1 8-4 8-5 9-1 8-2 8 0 8-7-5 0-9-3-8 8-8 1-8 3-9 5-8 2-8 1zM1346 1827l9 0 9-5 8-3 9-3 9 0 8-5 9-2 9-3 8-10 9 4 8-1 9-8-6-1-8 0-9 5-8 4-9 4-8 1-9 4-9 1-8 6-9-3-9 8-8 2-9-3z"/><path class="v2" d="M1500 1764l9-10 8 2-5 5-9-4-8 0z"/><path class="v1" d="M1728 1701l8-3 8-1 8-4 8-5 8 0-6-5-8 5-8 9-8-1-8 5-8 1zM1590 1746l8-5 8 0 8-1-5 2-8 0-9 2-8 7zM1531 1753l9 5 8-2 8 3-5 0-8 4-9 1-8-10zM1430 1805l8-7 9-5 8-2 9-4 8-9-5 2-9 2-8 9-9 8-8 1-9-4z"/><path class="v0" d="M1614 1740l9 3 8-5 8-3 8-4 8 0 8-1 9-6 8 0 8-3 8-4 8-2 8-4 8-3 8-7-6 1-8 2-8 2-8 3-8 3-8 5-8-2-8 8-8 1-8 5-8 3-9 0-8 5-8 3-8 2zM1556 1759l9 2 8-3 8-2 9-10-6 5-8 0-8 2-9 1-8 5zM1351 1828l9 1 9-2 9-2 8-8 9 0 9-6 8-3 9 2 9-5-6-9-8 10-9 3-9 2-8 5-9 0-9 3-8 3-9 5-9 0z"/><path class="v2" d="M1472 1778l8-9 9-6 8 2 9-5 8-8 9-2 8 3-5 1-9 2-8-2-9 10-8 4-9-2-8 10-8 4z"/><path class="v1" d="M1734 1708l8-8 8-4 8 1 7-2 8-11-5 4-8 0-8 5-8 4-8 1-8 3zM1709 1712l9-1-6 0-8 4zM1553 1752l9 3 8-3 8-4 9 3 8-5 8-1 9-1 8-4 8 3 8-8 9 3-6-3-8 3-8 5-9-3-8 1-8 0-8 5-9 10-8 2-8 3-9-2-8-3zM1469 1784l8-2-5-4-8 9zM1426 1808l9-9 8-2 9-8-5 4-9 5-8 7-9 5zM1409 1815l9-3-6-4-8 3z"/><path class="v0" d="M1718 1711l8 2 8-5-6-7-8 7-8 3zM1645 1738l8 1 8-5 8-1 8-2 8-4 8-4 8-1 8-10-5 3-8 2-8 4-8 3-8 0-9 6-8 1-8 0-8 4zM1418 1812l8-4-5 2-9-2zM1357 1839l9-5 8-5 9-2 9 0 8-8 9-4-5-4-9 6-9 0-8 8-9 2-9 2-9-1z"/><path class="v2" d="M1528 1748l9 4 8-2 8 2-5 4-8 2-9-5-8-3zM1477 1782l9-7 8-7 9-10-6 7-8-2-9 6-8 9zM1452 1789l8-8 9 3-5 3-9 4-8 2z"/><path class="v3" d="M1503 1758l8-5 9 1 8-6-5 2-9 2-8 8-9 5z"/><path class="v1" d="M1739 1713l8-3 8-7 8-2 8-4 8-9-6-4-8 11-7 2-8-1-8 4-8 8zM1715 1720l8-9 8 2-5 0-8-2-9 1zM1658 1735l9-4 8 4-6-2-8 1-8 5zM1592 1746l9-2 8-4 8 3 9 1 8 0 8-7 8 5-5-4-9-3-8 8-8-3-8 4-9 1-8 1-8 5zM1406 1820l8-7 9 2 9-5 8-6 9-7 8-6-5-2-9 8-8 2-9 9-8 4-9 3-9 4z"/><path class="v0" d="M1731 1713l8 0-5-5-8 5zM1675 1735l8-1 8-5 8-2 8-1 8-6-6-8-8 10-8 1-8 4-8 4-8 2zM1650 1742l8-7-5 4-8-1zM1362 1842l9-7 9 1 9-5 8-4 9-7-6-1-8 8-9 0-9 2-8 5-9 5z"/><path class="v2" d="M1559 1748l8-2 9-2 8 1 8 1-5 5-9-3-8 4-8 3-9-3zM1457 1791l9-10 8 3 9-6 8-4 9-11-6 5-8 7-9 7-8 2-9-3-8 8z"/><path class="v3" d="M1500 1763l8-6 9-3 8-3 9 3 8-4 8-4 9 2-6 4-8-2-8 2-9-4-8 6-9-1-8 5-9 10z"/><path class="v1" d="M1761 1713l8-12 8 1 8-6-6-8-8 9-8 4-8 2zM1721 1723l8-2 8-2-6-6-8-2-8 9zM1623 1746l8-3 8 1 9-2 8 2 8-8 8 2 8 2-5-5-8-4-9 4-8 7-8-5-8 7-8 0-9-1zM1394 1833l8-9 9 0 9-8 8-2 9-2 9-3 8-12-5 0-9 7-8 6-9 5-9-2-8 7-9 7-8 4z"/><path class="v0" d="M1737 1719l8-4 8 2 8-4-6-10-8 7-8 3-8 0zM1680 1740l8-2 9-3 8-1 8-5 8-6-6-3-8 6-8 1-8 2-8 5-8 1zM1368 1847l9-6 8-4 9-4-5-2-9 5-9-1-9 7z"/><path class="v2" d="M1590 1743l8-3 8 1 9 6 8-1-6-3-8-3-8 4-9 2-8-1zM1454 1797l9-8 8-11-5 3-9 10-8 6z"/><path class="v3" d="M1471 1778l9 1 8-11 9 4 8-12 9 0 8-5 9-4 8-4 8 1 9-6 8-1 9 1 8-2 9 3-6 2-8-1-9 2-8 2-9-2-8 4-8 4-9-3-8 3-9 3-8 6-9 11-8 4-9 6-8-3z"/><path class="v1" d="M1767 1715l8-4 8 3 8-7-6-11-8 6-8-1-8 12zM1628 1747l9-4 8-3 8 1 8 2 9-2 8-4 8 5-6-2-8-2-8-2-8 8-8-2-9 2-8-1-8 3zM1373 1847l9-8 9-4 8 2 9-12 8-7-5 6-9 0-8 9-9 4-8 4-9 6z"/><path class="v0" d="M1686 1742l8 0 8-2 8-4 8-2 9-8 8-1 8 2 8-3 8-5 8-4-6-2-8 4-8-2-8 4-8 2-8 2-8 6-8 5-8 1-9 3-8 2z"/><path class="v2" d="M1612 1736l8 6 8 5-5-1-8 1-9-6zM1416 1818l9-6 9-1 8-6 9-3 9-3 8-11-5 1-9 8-8 12-9 3-9 2-8 2-9 8z"/><path class="v3" d="M1587 1738l8-1 8-6 9 5-6 5-8-1-8 3-9-3zM1468 1788l9-4 8-5-5 0-9-1-8 11z"/><path class="v4" d="M1485 1779l8-19 9 0 8-3 9-3 8-6 9 2 8-11 9-2 8-3 9-1 8 2 9 3-6 2-8 2-9-1-8 1-9 6-8-1-8 4-9 4-8 5-9 0-8 12-9-4-8 11z"/><path class="v0" d="M1692 1745l8 2 8-8 8 3 8-3 8-4 8-4 8-7 8-4 8-1 8 3 8-2 8-6 8-4-5-3-8 7-8-3-8 4-8 4-8 5-8 3-8-2-8 1-9 8-8 2-8 4-8 2-8 0z"/><path class="v1" d="M1659 1743l8 3 8-3 9 7 8-5-6-3-8-5-8 4-9 2-8-2zM1379 1848l8-10 9 0 9-1 8-10-5-2-9 12-8-2-9 4-9 8z"/><path class="v2" d="M1634 1745l8 2 9-3 8-1-6-2-8-1-8 3-9 4zM1413 1827l9-6 9-6 8 0 9 1 9-9 8-8-5 0-9 3-9 3-8 6-9 1-9 6-8 7z"/><path class="v3" d="M1617 1729l9 3 8 13-6 2-8-5-8-6zM1465 1799l8-10 9-13-5 8-9 4-8 11z"/><path class="v4" d="M1592 1729l9-1 8-1 8 2-5 7-9-5-8 6-8 1zM1482 1776l8-6 9-10 8-4-5 4-9 0-8 19-8 5z"/><path class="v5" d="M1507 1756l9-9 8 1 9-11 8-2 9 1 8-8 9-5 8 6 9-2 8 2-5 9-9-3-8-2-9 1-8 3-9 2-8 11-9-2-8 6-9 3-8 3z"/><path class="v0" d="M1762 1729l8-1 8-4 8-1 8-2 8-6-6-5-8 4-8 6-8 2-8-3-8 1zM1689 1750l8 2 9-2 8-2 8-2 8-9 8-2 8-2 8-3-6-6-8 7-8 4-8 4-8 3-8-3-8 8-8-2-8 5z"/><path class="v1" d="M1754 1730l8-1-6-9-8 4zM1673 1749l8 0 8 1-5 0-9-7-8 3zM1384 1850l9-5 9 6 8-4 9-11-6-9-8 10-9 1-9 0-8 10z"/><path class="v2" d="M1648 1741l8 1 9 2 8 5-6-3-8-3-8 1-9 3zM1419 1836l8-11 9-4 9-8 8-5 9-6 8-4-5 1-8 8-9 9-9-1-8 0-9 6-9 6z"/><path class="v3" d="M1631 1740l9-2 8 3-6 6-8-2-8-13zM1470 1798l9-12-6 3-8 10z"/><path class="v4" d="M1615 1725l8 8 8 7-5-8-9-3-8-2zM1479 1786l8-11 9-12-6 7-8 6-9 13z"/><path class="v5" d="M1581 1728l8-6 9-1 8-2 9 6-6 2-8 1-9 1-8-2-9 2zM1496 1763l8-4 9-16-6 13-8 4-9 10z"/><path class="v6" d="M1513 1743l8-7 9-6 8-3 9-5 8-2 9 2 8 0 9 6-6 1-8-6-9 5-8 8-9-1-8 2-9 11-8-1-9 9z"/><path class="v0" d="M1744 1737l8 3 8-2 8-4 8-5 8 1 8-2 8-4 8-5-6-4-8 6-8 2-8 1-8 4-8 1-8 1-8 3-8 2zM1695 1756l8-1 8-2 8-2 9-10-6 5-8 2-8 2-9 2-8-2zM1407 1851l9-1-6-3-8 4z"/><path class="v1" d="M1728 1741l8-5 8 1-6-2-8 2-8 9zM1679 1751l8 2 8 3-6-6-8-1-8 0zM1416 1850l9-8-6-6-9 11zM1389 1855l9-6 9 2-5 0-9-6-9 5z"/><path class="v2" d="M1670 1742l9 9-6-2-8-5zM1425 1842l8-15 9-6 8-5 9-9-6 1-8 5-9 8-9 4-8 11z"/><path class="v3" d="M1637 1736l8-2 9-2 8 6 8 4-5 2-9-2-8-1-8-3-9 2zM1459 1807l8-8 9-3 8-9-5-1-9 12-8 4-9 6z"/><path class="v4" d="M1629 1726l8 10-6 4-8-7z"/><path class="v5" d="M1620 1723l9 3-6 7-8-8zM1484 1787l9-20 8-10-5 6-9 12-8 11z"/><path class="v6" d="M1595 1712l8-4 9 4 8 11-5 2-9-6-8 2-9 1zM1501 1757l9-13 8-9-5 8-9 16-8 4z"/><path class="v7" d="M1561 1709l8 2 9 4 8-5 9 2-6 10-8 6-9-6-8 0-9-2zM1518 1735l8-16-5 17-8 7z"/><path class="v8" d="M1526 1719l9-6 9-1 8-4 9 1-6 11-8 2-9 5-8 3-9 6z"/><path class="v0" d="M1798 1729l8-3 8-2-6-5-8 5-8 4zM1750 1747l8-2 8-4 8-1 8-6-6-5-8 5-8 4-8 2-8-3zM1717 1753l8 3-6-5-8 2z"/><path class="v1" d="M1782 1734l8-11 8 6-6-1-8 2-8-1zM1725 1756l8-10 8-1 9 2-6-10-8-1-8 5-9 10zM1684 1754l9-1 8 6 8-6 8 0-6 0-8 2-8 1-8-3-8-2zM1395 1859l9-6 9 0 8-6 9-4-5-1-9 8-9 1-9-2-9 6z"/><path class="v2" d="M1676 1744l8 10-5-3-9-9zM1430 1843l8-15 9-4-5-3-9 6-8 15z"/><path class="v3" d="M1668 1736l8 8-6-2-8-4zM1447 1824l9-13 8-3 9-7 8-7-5 2-9 3-8 8-9 9-8 5z"/><path class="v4" d="M1643 1731l8-2 8 3 9 4-6 2-8-6-9 2-8 2zM1481 1794l9-19-6 12-8 9z"/><path class="v5" d="M1626 1722l8 0 9 9-6 5-8-10-9-3z"/><path class="v6" d="M1617 1711l9 11-6 1-8-11zM1490 1775l8-18 8-12-5 12-8 10-9 20z"/><path class="v7" d="M1600 1704l9 1 8 6-5 1-9-4-8 4zM1506 1745l9-14-5 13-9 13z"/><path class="v8" d="M1583 1697l9 3 8 4-5 8-9-2-8 5zM1515 1731l8-16-5 20-8 9z"/><path class="v9" d="M1557 1692l9-2 9 3 8 4-5 18-9-4-8-2-9-1zM1523 1715l9-16 8-3-5 17-9 6-8 16z"/><path class="v10" d="M1540 1696l9-5 8 1-5 16-8 4-9 1z"/><path class="v0" d="M1804 1729l8 0 8 0-6-5-8 2-8 3zM1763 1742l8 4 9-4 8-7-6-1-8 6-8 1-8 4zM1739 1752l8-1-6-6-8 1z"/><path class="v1" d="M1788 1735l8-9 8 3-6 0-8-6-8 11zM1747 1751l8-11 8 2-5 3-8 2-9-2zM1706 1754l9 2 8-7 8 2 8 1-6-6-8 10-8-3-8 0-8 6zM1400 1861l9-5 9 5 9-6 8-9-5-3-9 4-8 6-9 0-9 6z"/><path class="v2" d="M1682 1746l8 3 8-1 8 6-5 5-8-6-9 1-8-10zM1435 1846l9-14 9-1-6-7-9 4-8 15z"/><path class="v3" d="M1673 1737l9 9-6-2-8-8zM1453 1831l8-10 9-12-6-1-8 3-9 13z"/><path class="v4" d="M1665 1729l8 8-5-1-9-4zM1470 1809l8-11 9-6-6 2-8 7-9 7z"/><path class="v5" d="M1640 1723l8 5 9-3 8 4-6 3-8-3-8 2-9-9zM1487 1792l8-22-5 5-9 19z"/><path class="v6" d="M1632 1714l8 9-6-1-8 0zM1495 1770l9-16-6 3-8 18z"/><path class="v7" d="M1623 1704l9 10-6 8-9-11z"/><path class="v8" d="M1606 1694l9 6 8 4-6 7-8-6-9-1zM1504 1754l8-21-6 12-8 12z"/><path class="v9" d="M1597 1693l9 1-6 10-8-4zM1512 1733l8-20-5 18-9 14z"/><path class="v10" d="M1580 1683l9 2 8 8-5 7-9-3-8-4zM1520 1713l9-16-6 18-8 16z"/><path class="v11" d="M1563 1669l9 4 8 10-5 10-9-3-9 2zM1529 1697l8-11 9-4 8-12-5 21-9 5-8 3-9 16z"/><path class="v12" d="M1554 1670l9-1-6 23-8-1z"/><path class="v0" d="M1817 1735l8-1-5-5-8 0zM1777 1746l8 1 8-2-5-10-8 7-9 4z"/><path class="v1" d="M1793 1745l8-9 9-6 7 5-5-6-8 0-8-3-8 9zM1712 1754l8 0 9-7 8 2 8 3 8-3 8-4 8-1 8 2-6 0-8-4-8-2-8 11-8 1-8-1-8-2-8 7-9-2zM1406 1864l9-2 9-3 8-4 9-11-6 2-8 9-9 6-9-5-9 5z"/><path class="v2" d="M1696 1746l8 1 8 7-6 0-8-6-8 1zM1441 1844l9-2 8-6 9-11-6-4-8 10-9 1-9 14z"/><path class="v3" d="M1688 1741l8 5-6 3-8-3zM1467 1825l8-14-5-2-9 12z"/><path class="v4" d="M1679 1730l9 11-6 5-9-9zM1475 1811l9-19-6 6-8 11z"/><path class="v5" d="M1663 1719l8 4 8 7-6 7-8-8-8-4zM1484 1792l8-14-5 14-9 6z"/><path class="v6" d="M1646 1709l8 6 9 4-6 6-9 3-8-5zM1492 1778l8-21-5 13-8 22z"/><path class="v7" d="M1637 1701l9 8-6 14-8-9zM1500 1757l9-14-5 11-9 16z"/><path class="v8" d="M1629 1694l8 7-5 13-9-10z"/><path class="v9" d="M1620 1684l9 10-6 10-8-4zM1509 1743l8-23-5 13-8 21z"/><path class="v10" d="M1612 1685l8-1-5 16-9-6zM1517 1720l9-21-6 14-8 20z"/><path class="v11" d="M1594 1661l9 9 9 15-6 9-9-1-8-8z"/><path class="v12" d="M1586 1659l8 2-5 24-9-2zM1526 1699l8-22-5 20-9 16z"/><path class="v13" d="M1568 1646l9 9 9 4-6 24-8-10-9-4zM1534 1677l8-18 9-8-5 31-9 4-8 11z"/><path class="v14" d="M1551 1651l9-1 8-4-5 23-9 1-8 12z"/><path class="v0" d="M1823 1740l8-3-6-3-8 1zM1783 1746l8 3 8-1 8-3-6-9-8 9-8 2-8-1z"/><path class="v1" d="M1807 1745l8-8 8 3-6-5-7-5-9 6zM1743 1751l8-7 8 1 8-3 8-2 8 6-6 0-8-2-8 1-8 4-8 3-8-3zM1412 1876l8-5 9-8 9-3 9-10-6-6-9 11-8 4-9 3-9 2z"/><path class="v2" d="M1718 1748l8 3 8-3 9 3-6-2-8-2-9 7-8 0zM1447 1850l8-12 9 1-6-3-8 6-9 2z"/><path class="v3" d="M1710 1742l8 6-6 6-8-7zM1464 1839l8-16-5 2-9 11z"/><path class="v4" d="M1685 1733l8 0 9 0 8 9-6 5-8-1-8-5-9-11zM1472 1823l9-22-6 10-8 14z"/><path class="v5" d="M1677 1719l8 14-6-3-8-7zM1481 1801l8-13-5 4-9 19z"/><path class="v6" d="M1668 1712l9 7-6 4-8-4zM1489 1788l8-22-5 12-8 14z"/><path class="v7" d="M1660 1706l8 6-5 7-9-4zM1497 1766l9-18-6 9-8 21z"/><path class="v8" d="M1651 1699l9 7-6 9-8-6z"/><path class="v9" d="M1643 1691l8 8-5 10-9-8zM1506 1748l8-27-5 22-9 14z"/><path class="v10" d="M1626 1675l8 6 9 10-6 10-8-7-9-10z"/><path class="v11" d="M1617 1671l9 4-6 9-8 1zM1514 1721l8-24-5 23-8 23z"/><path class="v12" d="M1609 1658l8 13-5 14-9-15zM1522 1697l9-24-5 26-9 21z"/><path class="v13" d="M1591 1648l9 3 9 7-6 12-9-9-8-2z"/><path class="v14" d="M1583 1639l8 9-5 11-9-4zM1531 1673l8-17-5 21-8 22z"/><path class="v15" d="M1574 1628l9 11-6 16-9-9zM1539 1656l9-25-6 28-8 18z"/><path class="v16" d="M1548 1631l8-6 9 1 9 2-6 18-8 4-9 1-9 8z"/><path class="v0" d="M1797 1748l8 5 8-6 8-1 8-4 8-2-6-3-8 3-8-3-8 8-8 3-8 1z"/><path class="v1" d="M1789 1741l8 7-6 1-8-3zM1417 1879l9-8 9-9 8 0 9-3-5-9-9 10-9 3-9 8-8 5z"/><path class="v2" d="M1724 1748l8-1 8 0 8 9 9-8 8-3 8 2 8-16 8 10-6 5-8-6-8 2-8 3-8-1-8 7-9-3-8 3-8-3zM1452 1859l9-15 8-6-5 1-9-1-8 12z"/><path class="v3" d="M1716 1743l8 5-6 0-8-6zM1469 1838l9-17-6 2-8 16z"/><path class="v4" d="M1707 1736l9 7-6-1-8-9zM1478 1821l8-14-5-6-9 22z"/><path class="v5" d="M1691 1722l8 9 8 5-5-3-9 0-8 0zM1486 1807l9-16-6-3-8 13z"/><path class="v7" d="M1682 1707l9 15-6 11-8-14z"/><path class="v8" d="M1666 1690l8 6 8 11-5 12-9-7-8-6zM1503 1771l8-24-5 1-9 18z"/><path class="v9" d="M1657 1687l9 3-6 16-9-7z"/><path class="v10" d="M1640 1676l9 5 8 6-6 12-8-8-9-10zM1511 1747l9-31-6 5-8 27z"/><path class="v11" d="M1632 1666l8 10-6 5-8-6z"/><path class="v12" d="M1623 1655l9 11-6 9-9-4zM1520 1716l8-25-6 6-8 24z"/><path class="v13" d="M1614 1650l9 5-6 16-8-13z"/><path class="v14" d="M1606 1638l8 12-5 8-9-7zM1528 1691l8-32-5 14-9 24z"/><path class="v15" d="M1597 1628l9 10-6 13-9-3z"/><path class="v16" d="M1588 1620l9 8-6 20-8-9zM1536 1659l9-27-6 24-8 17z"/><path class="v17" d="M1579 1611l9 9-5 19-9-11zM1545 1632l8-20-5 19-9 25z"/><path class="v18" d="M1553 1612l9-13 8-1 9 13-5 17-9-2-9-1-8 6z"/><path class="v6" d="M1495 1791l8-20-6-5-8 22z"/><path class="v0" d="M1803 1752l8 1 8-2 8 0 8-4 8-6-6-1-8 2-8 4-8 1-8 6-8-5z"/><path class="v1" d="M1795 1745l8 7-6-4-8-7zM1423 1886l9-7 8-12 9-3 9-6-6 1-9 3-8 0-9 9-9 8z"/><path class="v2" d="M1754 1751l8 1 9-3 8-3 8 0 8-1-6-4-8-10-8 16-8-2-8 3-9 8zM1458 1858l8-11-5-3-9 15z"/><path class="v3" d="M1722 1744l8-2 8 3 8-1 8 7-6 5-8-9-8 0-8 1-8-5zM1466 1847l9-9 8-12-5-5-9 17-8 6z"/><path class="v4" d="M1713 1735l9 9-6-1-9-7zM1483 1826l9-17-6-2-8 14z"/><path class="v5" d="M1705 1726l8 9-6 1-8-5z"/><path class="v6" d="M1697 1720l8 6-6 5-8-9zM1492 1809l8-21-5 3-9 16z"/><path class="v7" d="M1688 1701l9 19-6 2-9-15zM1500 1788l9-16-6-1-8 20z"/><path class="v9" d="M1680 1683l8 18-6 6-8-11z"/><path class="v10" d="M1671 1679l9 4-6 13-8-6zM1517 1745l8-30-5 1-9 31z"/><path class="v11" d="M1654 1662l9 6 8 11-5 11-9-3-8-6z"/><path class="v12" d="M1646 1657l8 5-5 19-9-5z"/><path class="v13" d="M1637 1651l9 6-6 19-8-10zM1525 1715l9-29-6 5-8 25z"/><path class="v14" d="M1620 1636l9 3 8 12-5 15-9-11-9-5z"/><path class="v15" d="M1611 1630l9 6-6 14-8-12zM1534 1686l8-39-6 12-8 32z"/><path class="v16" d="M1603 1616l8 14-5 8-9-10z"/><path class="v18" d="M1594 1602l9 14-6 12-9-8zM1542 1647l8-37-5 22-9 27z"/><path class="v19" d="M1585 1591l9 11-6 18-9-9zM1550 1610l8-23-5 25-8 20z"/><path class="v20" d="M1558 1587l9-9 9-4 9 17-6 20-9-13-8 1-9 13z"/><path class="v8" d="M1509 1772l8-27-6 2-8 24z"/><path class="v0" d="M1817 1755l8 0 8-3 8-5 8 3-6-9-8 6-8 4-8 0-8 2z"/><path class="v1" d="M1793 1756l8 2 8-2 8-1-6-2-8-1-8-7-8 1zM1428 1883l9-7 9-7-6-2-8 12-9 7z"/><path class="v2" d="M1760 1751l8 5 9-1 8-1 8 2-6-10-8 0-8 3-9 3-8-1zM1446 1869l9-4 8 1 9-13-6-6-8 11-9 6-9 3z"/><path class="v3" d="M1744 1741l8 0 8 10-6 0-8-7-8 1zM1472 1853l8-15-5 0-9 9z"/><path class="v4" d="M1727 1736l9 4 8 1-6 4-8-3-8 2zM1480 1838l9-15-6 3-8 12z"/><path class="v5" d="M1719 1728l8 8-5 8-9-9zM1489 1823l9-13-6-1-9 17z"/><path class="v6" d="M1711 1720l8 8-6 7-8-9zM1498 1810l8-20-6-2-8 21z"/><path class="v7" d="M1703 1703l8 17-6 6-8-6zM1506 1790l8-21-5 3-9 16z"/><path class="v9" d="M1694 1680l9 23-6 17-9-19zM1514 1769l9-25-6 1-8 27z"/><path class="v10" d="M1686 1670l8 10-6 21-8-18z"/><path class="v11" d="M1677 1659l9 11-6 13-9-4zM1523 1744l8-32-6 3-8 30z"/><path class="v12" d="M1669 1649l8 10-6 20-8-11z"/><path class="v13" d="M1660 1645l9 4-6 19-9-6zM1531 1712l8-33-5 7-9 29z"/><path class="v14" d="M1643 1643l9-2 8 4-6 17-8-5-9-6z"/><path class="v15" d="M1626 1633l8 2 9 8-6 8-8-12-9-3z"/><path class="v16" d="M1617 1624l9 9-6 3-9-6zM1539 1679l8-40-5 8-8 39z"/><path class="v17" d="M1608 1605l9 19-6 6-8-14z"/><path class="v19" d="M1599 1588l9 17-5 11-9-14zM1547 1639l9-42-6 13-8 37z"/><path class="v20" d="M1590 1571l9 17-5 14-9-11z"/><path class="v22" d="M1564 1567l9-12 8-1 9 17-5 20-9-17-9 4-9 9z"/><path class="v21" d="M1556 1597l8-30-6 20-8 23z"/><path class="v0" d="M1823 1759l8 2 8-3 8-4 8-2-6-2-8-3-8 5-8 3-8 0z"/><path class="v1" d="M1791 1761l8 4 8-5 8 2 8-3-6-4-8 1-8 2-8-2-8-2zM1434 1886l9-2 9-5-6-10-9 7-9 7z"/><path class="v2" d="M1774 1754l8 5 9 2-6-7-8 1-9 1zM1452 1879l8-8 9-10 9-6-6-2-9 13-8-1-9 4z"/><path class="v3" d="M1766 1745l8 9-6 2-8-5zM1478 1855l8-14-6-3-8 15z"/><path class="v4" d="M1742 1739l8-4 8-1 8 11-6 6-8-10-8 0-8-1zM1486 1841l9-16-6-2-9 15z"/><path class="v5" d="M1733 1732l9 7-6 1-9-4zM1495 1825l8-9-5-6-9 13z"/><path class="v6" d="M1725 1727l8 5-6 4-8-8zM1503 1816l9-20-6-6-8 20z"/><path class="v7" d="M1717 1714l8 13-6 1-8-8z"/><path class="v8" d="M1708 1690l9 24-6 6-8-17zM1512 1796l8-28-6 1-8 21z"/><path class="v11" d="M1700 1658l8 32-5 13-9-23z"/><path class="v13" d="M1692 1637l8 21-6 22-8-10z"/><path class="v14" d="M1683 1627l9 10-6 33-9-11zM1537 1709l8-42-6 12-8 33z"/><path class="v15" d="M1675 1618l8 9-6 32-8-10zM1649 1632l8-9-5 18-9 2z"/><path class="v16" d="M1657 1623l9-8 9 3-6 31-9-4-8-4zM1632 1621l8 9 9 2-6 11-9-8-8-2z"/><path class="v17" d="M1623 1610l9 11-6 12-9-9zM1545 1667l8-34-6 6-8 40z"/><path class="v18" d="M1614 1602l9 8-6 14-9-19z"/><path class="v20" d="M1605 1574l9 28-6 3-9-17zM1553 1633l8-44-5 8-9 42z"/><path class="v22" d="M1596 1549l9 25-6 14-9-17z"/><path class="v23" d="M1587 1541l9 8-6 22-9-17zM1561 1589l9-35 8-9-5 10-9 12-8 30z"/><path class="v24" d="M1578 1545l9-4-6 13-8 1z"/><path class="v12" d="M1528 1741l9-32-6 3-8 32z"/><path class="v9" d="M1520 1768l8-27-5 3-9 25z"/><path class="v0" d="M1821 1771l8-8 8-2 8 2 8-3 8-6-6-2-8 2-8 4-8 3-8-2-8 3z"/><path class="v1" d="M1796 1765l9 2 8 6 8-2-6-9-8-2-8 5-8-4zM1440 1890l8 0 9-11 9-5-6-3-8 8-9 5-9 2z"/><path class="v2" d="M1788 1759l8 6-5-4-9-2zM1466 1874l9-5 8-13-5-1-9 6-9 10z"/><path class="v3" d="M1780 1749l8 10-6 0-8-5zM1483 1856l9-17-6 2-8 14z"/><path class="v4" d="M1772 1732l8 17-6 5-8-9zM1492 1839l8-7-5-7-9 16z"/><path class="v5" d="M1748 1726l8-4 8-1 8 11-6 13-8-11-8 1-8 4zM1500 1832l9-12-6-4-8 9z"/><path class="v6" d="M1731 1717l8 15 9-6-6 13-9-7-8-5zM1509 1820l8-26-5 2-9 20z"/><path class="v8" d="M1723 1698l8 19-6 10-8-13zM1517 1794l9-24-6-2-8 28z"/><path class="v11" d="M1714 1662l9 36-6 16-9-24z"/><path class="v13" d="M1706 1627l8 35-6 28-8-32z"/><path class="v16" d="M1698 1598l8 29-6 31-8-21zM1646 1624l9-4-6 12-9-2z"/><path class="v17" d="M1689 1584l9 14-6 39-9-10zM1655 1620l8-11-6 14-8 9zM1637 1619l9 5-6 6-8-9z"/><path class="v18" d="M1663 1609l9-18 8-10 9 3-6 43-8-9-9-3-9 8zM1629 1613l8 6-5 2-9-11zM1551 1674l8-44-6 3-8 34z"/><path class="v19" d="M1620 1600l9 13-6-3-9-8z"/><path class="v21" d="M1611 1571l9 29-6 2-9-28zM1559 1630l8-51-6 10-8 44z"/><path class="v23" d="M1602 1550l9 21-6 3-9-25z"/><path class="v25" d="M1575 1545l9-19 9 4 9 20-6-1-9-8-9 4-8 9z"/><path class="v24" d="M1567 1579l8-34-5 9-9 35z"/><path class="v15" d="M1542 1713l9-39-6-7-8 42z"/><path class="v12" d="M1534 1749l8-36-5-4-9 32z"/><path class="v9" d="M1526 1770l8-21-6-8-8 27z"/><path class="v0" d="M1818 1776l9-2 8-5 8-1 8-6 8-6 8 4-6-6-8 6-8 3-8-2-8 2-8 8-8 2z"/><path class="v1" d="M1802 1763l8 8 8 5-5-3-8-6-9-2zM1445 1905l9-14 9-9-6-3-9 11-8 0z"/><path class="v2" d="M1794 1757l8 6-6 2-8-6zM1463 1882l9-3 8-16 9-3-6-4-8 13-9 5-9 5z"/><path class="v3" d="M1786 1741l8 16-6 2-8-10zM1489 1860l8-16-5-5-9 17z"/><path class="v5" d="M1778 1713l8 28-6 8-8-17zM1506 1839l9-18-6-1-9 12z"/><path class="v7" d="M1754 1719l8-10 8-9 8 13-6 19-8-11-8 1-8 4zM1737 1707l8 18-6 7-8-15z"/><path class="v6" d="M1745 1725l9-6-6 7-9 6zM1515 1821l8-19-6-8-8 26z"/><path class="v10" d="M1729 1678l8 29-6 10-8-19zM1531 1771l9-24-6 2-8 21z"/><path class="v13" d="M1720 1641l9 37-6 20-9-36z"/><path class="v16" d="M1712 1598l8 43-6 21-8-35z"/><path class="v19" d="M1704 1568l8 30-6 29-8-29zM1661 1610l8-24-6 23-8 11zM1626 1604l9 11-6-2-9-13z"/><path class="v21" d="M1678 1569l8-20 9 0 9 19-6 30-9-14-9-3-8 10zM1617 1582l9 22-6-4-9-29zM1565 1625l8-43-6-3-8 51z"/><path class="v20" d="M1669 1586l9-17-6 22-9 18z"/><path class="v17" d="M1652 1615l9-5-6 10-9 4z"/><path class="v18" d="M1635 1615l8-2 9 2-6 9-9-5-8-6zM1556 1672l9-47-6 5-8 44z"/><path class="v23" d="M1608 1556l9 26-6-11-9-21z"/><path class="v25" d="M1599 1533l9 23-6-6-9-20zM1581 1555l9-21-6-8-9 19z"/><path class="v26" d="M1590 1534l9-1-6-3-9-4z"/><path class="v24" d="M1573 1582l8-27-6-10-8 34z"/><path class="v15" d="M1548 1715l8-43-5 2-9 39z"/><path class="v12" d="M1540 1747l8-32-6-2-8 36z"/><path class="v8" d="M1523 1802l8-31-5-1-9 24z"/><path class="v4" d="M1497 1844l9-5-6-7-8 7z"/><path class="v0" d="M1865 1764l8 1-6-5-8-4zM1825 1773l7 6 9-3 8-5 8-5-6-4-8 6-8 1-8 5-9 2z"/><path class="v1" d="M1857 1766l8-2-6-8-8 6zM1808 1770l8 0 9 3-7 3-8-5-8-8zM1451 1899l9-1 8-10-5-6-9 9-9 14z"/><path class="v2" d="M1800 1759l8 11-6-7-8-6zM1468 1888l9-6 9-7 9-6-6-9-9 3-8 16-9 3z"/><path class="v4" d="M1792 1739l8 20-6-2-8-16zM1503 1854l9-5-6-10-9 5z"/><path class="v7" d="M1785 1697l7 42-6 2-8-28zM1751 1711l9 0-6 8-9 6z"/><path class="v9" d="M1768 1689l8-14 9 22-7 16-8-13-8 9zM1743 1695l8 16-6 14-8-18z"/><path class="v8" d="M1760 1711l8-22-6 20-8 10zM1529 1807l8-23-6-13-8 31z"/><path class="v11" d="M1735 1659l8 36-6 12-8-29z"/><path class="v15" d="M1726 1618l9 41-6 19-9-37zM1554 1728l8-41-6-15-8 43z"/><path class="v19" d="M1718 1566l8 52-6 23-8-43zM1658 1614l9-15-6 11-9 5zM1632 1607l9 8-6 0-9-11z"/><path class="v22" d="M1710 1528l8 38-6 32-8-30zM1675 1574l9-31-6 26-9 17z"/><path class="v24" d="M1684 1543l8-30 9-6 9 21-6 40-9-19-9 0-8 20z"/><path class="v20" d="M1667 1599l8-25-6 12-8 24z"/><path class="v18" d="M1641 1615l8-4 9 3-6 1-9-2-8 2zM1562 1687l9-49-6-13-9 47z"/><path class="v21" d="M1623 1588l9 19-6-3-9-22zM1571 1638l8-43-6-13-8 43z"/><path class="v23" d="M1614 1559l9 29-6-6-9-26zM1579 1595l8-28-6-12-8 27z"/><path class="v25" d="M1587 1567l9-12 9-5 9 9-6-3-9-23-9 1-9 21z"/><path class="v12" d="M1546 1758l8-30-6-13-8 32z"/><path class="v10" d="M1537 1784l9-26-6-11-9 24z"/><path class="v6" d="M1520 1826l9-19-6-5-8 19z"/><path class="v5" d="M1512 1849l8-23-5-5-9 18z"/><path class="v3" d="M1495 1869l8-15-6-10-8 16z"/><path class="v0" d="M1838 1783l9-2 8-3 8-6 8-1 8-7-6 1-8-1-8 2-8 5-8 5-9 3z"/><path class="v1" d="M1814 1775l8 2 9-4 7 10-6-4-7-6-9-3-8 0zM1457 1902l8 1 9-7-6-8-8 10-9 1z"/><path class="v3" d="M1806 1757l8 18-6-5-8-11zM1500 1872l9-11-6-7-8 15z"/><path class="v5" d="M1799 1724l7 33-6 2-8-20zM1518 1847l8-14-6-7-8 23z"/><path class="v9" d="M1791 1673l8 51-7 15-7-42zM1749 1698l8 13-6 0-8-16zM1543 1793l9-28-6-7-9 26z"/><path class="v11" d="M1774 1674l9-23 8 22-6 24-9-22-8 14zM1552 1765l8-28-6-9-8 30z"/><path class="v10" d="M1766 1705l8-31-6 15-8 22z"/><path class="v8" d="M1757 1711l9-6-6 6-9 0z"/><path class="v12" d="M1741 1657l8 41-6-3-8-36z"/><path class="v16" d="M1733 1605l8 52-6 2-9-41z"/><path class="v21" d="M1724 1543l9 62-7 13-8-52zM1673 1587l8-25-6 12-8 25z"/><path class="v25" d="M1716 1489l8 54-6 23-8-38z"/><path class="v27" d="M1707 1468l9 21-6 39-9-21z"/><path class="v28" d="M1698 1482l9-14-6 39-9 6z"/><path class="v26" d="M1690 1520l8-38-6 31-8 30z"/><path class="v24" d="M1681 1562l9-42-6 23-9 31zM1602 1583l9-4 9 2-6-22-9-9-9 5z"/><path class="v20" d="M1664 1611l9-24-6 12-9 15zM1629 1604l9 9-6-6-9-19zM1577 1661l8-34-6-32-8 43z"/><path class="v18" d="M1647 1624l8-6 9-7-6 3-9-3-8 4z"/><path class="v19" d="M1638 1613l9 11-6-9-9-8z"/><path class="v22" d="M1620 1581l9 23-6-16-9-29zM1585 1627l9-28-7-32-8 28z"/><path class="v23" d="M1594 1599l8-16-6-28-9 12z"/><path class="v17" d="M1568 1695l9-34-6-23-9 49z"/><path class="v14" d="M1560 1737l8-42-6-8-8 41z"/><path class="v7" d="M1535 1813l8-20-6-9-8 23z"/><path class="v6" d="M1526 1833l9-20-6-6-9 19z"/><path class="v4" d="M1509 1861l9-14-6 2-9 5z"/><path class="v2" d="M1474 1896l9-9 9-8 8-7-5-3-9 6-9 7-9 6z"/><path class="v0" d="M1844 1786l9-3 8-1 8-7 8-2 8 0-6-9-8 7-8 1-8 6-8 3-9 2z"/><path class="v1" d="M1820 1780l8 4 8-4 8 6-6-3-7-10-9 4-8-2zM1462 1911l9-1 9-6 9-9-6-8-9 9-9 7-8-1z"/><path class="v3" d="M1812 1756l8 24-6-5-8-18zM1506 1873l9-10-6-2-9 11z"/><path class="v6" d="M1805 1710l7 46-6 1-7-33zM1532 1842l9-18-6-11-9 20z"/><path class="v11" d="M1797 1649l8 61-6 14-8-51zM1772 1696l8-42-6 20-8 31zM1558 1780l8-26-6-17-8 28z"/><path class="v14" d="M1780 1654l9-28 8 23-6 24-8-22-9 23z"/><path class="v9" d="M1763 1710l9-14-6 9-9 6zM1549 1806l9-26-6-15-9 28z"/><path class="v10" d="M1755 1691l8 19-6 1-8-13z"/><path class="v13" d="M1747 1651l8 40-6 7-8-41zM1566 1754l8-33-6-26-8 42z"/><path class="v17" d="M1739 1597l8 54-6 6-8-52z"/><path class="v22" d="M1730 1532l9 65-6 8-9-62zM1679 1591l8-29-6 0-8 25zM1609 1612l8 0 9 2-6-33-9-2-9 4z"/><path class="v27" d="M1722 1468l8 64-6 11-8-54zM1696 1519l9-38-7 1-8 38z"/><path class="v29" d="M1705 1481l8-33 9 20-6 21-9-21-9 14z"/><path class="v25" d="M1687 1562l9-43-6 1-9 42z"/><path class="v20" d="M1670 1622l9-31-6-4-9 24zM1591 1653l9-23-6-31-9 28z"/><path class="v18" d="M1653 1634l8 1 9-13-6-11-9 7-8 6zM1583 1685l8-32-6-26-8 34z"/><path class="v19" d="M1635 1623l9 9 9 2-6-10-9-11-9-9z"/><path class="v21" d="M1626 1614l9 9-6-19-9-23zM1600 1630l9-18-7-29-8 16z"/><path class="v16" d="M1574 1721l9-36-6-24-9 34z"/><path class="v7" d="M1541 1824l8-18-6-13-8 20z"/><path class="v4" d="M1515 1863l9-4 8-17-6-9-8 14-9 14z"/><path class="v2" d="M1489 1895l9-8 8-14-6-1-8 7-9 8z"/><path class="v0" d="M1850 1792l9-3 8-6 8-1 8-7 8-2-6 0-8 0-8 2-8 7-8 1-9 3z"/><path class="v1" d="M1826 1780l8 7 8 3 8 2-6-6-8-6-8 4-8-4zM1468 1916l9-3 9-7 9-7-6-4-9 9-9 6-9 1z"/><path class="v3" d="M1818 1757l8 23-6 0-8-24zM1512 1881l9-8 8-9-5-5-9 4-9 10z"/><path class="v7" d="M1811 1700l7 57-6-1-7-46z"/><path class="v12" d="M1803 1632l8 68-6 10-8-61zM1572 1772l9-27-7-24-8 33z"/><path class="v16" d="M1787 1633l8-32 8 31-6 17-8-23-9 28z"/><path class="v13" d="M1778 1690l9-57-7 21-8 42zM1753 1661l8 35-6-5-8-40z"/><path class="v10" d="M1761 1696l8 19 9-25-6 6-9 14-8-19zM1564 1792l8-20-6-18-8 26z"/><path class="v17" d="M1745 1603l8 58-6-10-8-54zM1659 1650l8 0-6-15-8-1zM1589 1710l9-24-7-33-8 32z"/><path class="v22" d="M1736 1541l9 62-6-6-9-65z"/><path class="v27" d="M1728 1488l8 53-6-9-8-64zM1702 1530l9-36-6-13-9 38z"/><path class="v30" d="M1711 1494l8-26 9 20-6-20-9-20-8 33z"/><path class="v24" d="M1693 1581l9-51-6-11-9 43z"/><path class="v21" d="M1685 1611l8-30-6-19-8 29z"/><path class="v19" d="M1676 1630l9-19-6-20-9 31zM1624 1645l8-1 9 5-6-26-9-9-9-2zM1606 1662l9-9-6-41-9 18z"/><path class="v18" d="M1667 1650l9-20-6-8-9 13zM1641 1649l9 0 9 1-6-16-9-2-9-9zM1598 1686l8-24-6-32-9 23z"/><path class="v20" d="M1615 1653l9-8-7-33-8 0z"/><path class="v14" d="M1581 1745l8-35-6-25-9 36z"/><path class="v8" d="M1555 1812l9-20-6-12-9 26z"/><path class="v6" d="M1547 1832l8-20-6-6-8 18z"/><path class="v5" d="M1538 1845l9-13-6-8-9 18z"/><path class="v4" d="M1529 1864l9-19-6-3-8 17z"/><path class="v2" d="M1495 1899l8-13 9-5-6-8-8 14-9 8z"/><path class="v1" d="M1889 1778l8-5-6 0-8 2zM1840 1792l9-4 8 0-7 4-8-2-8-3zM1474 1910l9-2 8-1 9-4-5-4-9 7-9 7-9 3z"/><path class="v0" d="M1857 1788l8 0 8-6 8 0 8-4-6-3-8 7-8 1-8 6-9 3z"/><path class="v2" d="M1832 1780l8 12-6-5-8-7zM1500 1903l9-11 9-2-6-9-9 5-8 13z"/><path class="v3" d="M1825 1757l7 23-6 0-8-23zM1518 1890l9-11 8-6-6-9-8 9-9 8z"/><path class="v8" d="M1817 1698l8 59-7 0-7-57z"/><path class="v14" d="M1810 1615l7 83-6 2-8-68zM1784 1696l9-69-6 6-9 57zM1595 1740l9-23-6-31-9 24z"/><path class="v18" d="M1793 1627l9-44 8 32-7 17-8-31-8 32zM1682 1660l9-23-6-26-9 19z"/><path class="v10" d="M1767 1714l8 12 9-30-6-6-9 25-8-19zM1578 1789l9-27-6-17-9 27z"/><path class="v12" d="M1759 1680l8 34-6-18-8-35z"/><path class="v17" d="M1751 1627l8 53-6-19-8-58zM1673 1676l9-16-6-30-9 20zM1612 1693l9-8 9-5 9-9 8 6 9-3-6-25-9 0-9-5-8 1-9 8-9 9z"/><path class="v21" d="M1742 1581l9 46-6-24-9-62z"/><path class="v26" d="M1734 1530l8 51-6-40-8-53zM1708 1560l9-33-6-33-9 36z"/><path class="v28" d="M1717 1527l8-20 9 23-6-42-9-20-8 26z"/><path class="v23" d="M1699 1601l9-41-6-30-9 51z"/><path class="v20" d="M1691 1637l8-36-6-20-8 30z"/><path class="v16" d="M1656 1674l9 0 8 2-6-26-8 0-9-1zM1604 1717l8-24-6-31-8 24z"/><path class="v13" d="M1587 1762l8-22-6-30-8 35z"/><path class="v9" d="M1570 1806l8-17-6-17-8 20z"/><path class="v7" d="M1561 1826l9-20-6-14-9 20z"/><path class="v6" d="M1552 1843l9-17-6-14-8 20z"/><path class="v5" d="M1544 1858l8-15-5-11-9 13z"/><path class="v4" d="M1535 1873l9-15-6-13-9 19z"/><path class="v0" d="M1887 1790l8-5 8 0-6-12-8 5-8 4z"/><path class="v1" d="M1846 1791l9-2 8 5 8-8 8-1 8 5-6-8-8 0-8 6-8 0-8 0-9 4zM1480 1928l9-5 8-16-6 0-8 1-9 2z"/><path class="v2" d="M1838 1786l8 5-6 1-8-12zM1497 1907l9-2 9-9 9-2-6-4-9 2-9 11-9 4z"/><path class="v4" d="M1831 1752l7 34-6-6-7-23zM1550 1863l8-11-6-9-8 15z"/><path class="v8" d="M1823 1697l8 55-6 5-8-59zM1576 1827l8-19-6-19-8 17z"/><path class="v14" d="M1816 1616l7 81-6 1-7-83zM1790 1707l9-76-6-4-9 69zM1610 1746l9-19-7-34-8 24z"/><path class="v18" d="M1799 1631l9-53 8 38-6-1-8-32-9 44z"/><path class="v9" d="M1773 1729l8 8 9-30-6-11-9 30-8-12zM1584 1808l9-26-6-20-9 27z"/><path class="v11" d="M1765 1700l8 29-6-15-8-34zM1593 1782l8-19-6-23-8 22z"/><path class="v15" d="M1757 1658l8 42-6-20-8-53zM1619 1727l8-9 9-8 9-13 9 11 8-8 9-8 8-5 9-15-6-12-9 16-8-2-9 0-9 3-8-6-9 9-9 5-9 8z"/><path class="v19" d="M1748 1622l9 36-6-31-9-46zM1697 1659l8-25-6-33-8 36z"/><path class="v23" d="M1740 1588l8 34-6-41-8-51z"/><path class="v25" d="M1723 1576l8-3 9 15-6-58-9-23-8 20z"/><path class="v24" d="M1714 1608l9-32-6-49-9 33z"/><path class="v21" d="M1705 1634l9-26-6-48-9 41z"/><path class="v17" d="M1688 1672l9-13-6-22-9 23z"/><path class="v12" d="M1601 1763l9-17-6-29-9 23z"/><path class="v7" d="M1567 1838l9-11-6-21-9 20z"/><path class="v5" d="M1558 1852l9-14-6-12-9 17z"/><path class="v3" d="M1524 1894l8-13 9-4 9-14-6-5-9 15-8 6-9 11z"/><path class="v0" d="M1885 1796l8-1 8-3 8-5-6-2-8 0-8 5-8-5zM1486 1937l8-7-5-7-9 5z"/><path class="v1" d="M1852 1798l9-5 8 2 8-1 8 2-6-11-8 1-8 8-8-5-9 2zM1494 1930l9-15-6-8-8 16z"/><path class="v2" d="M1844 1788l8 10-6-7-8-5zM1503 1915l9-3 9-5 8-6 9-8-6-12-8 13-9 2-9 9-9 2z"/><path class="v4" d="M1837 1762l7 26-6-2-7-34zM1556 1870l8-11-6-7-8 11z"/><path class="v8" d="M1829 1709l8 53-6-10-8-55zM1779 1744l8-2-6-5-8-8zM1590 1820l9-16-6-22-9 26z"/><path class="v14" d="M1822 1626l7 83-6-12-7-81zM1796 1712l9-71-6-10-9 76zM1677 1716l9-5 8-9-6-30-9 15-8 5z"/><path class="v18" d="M1805 1641l9-42 8 27-6-10-8-38-9 53zM1711 1671l9-12-6-51-9 26z"/><path class="v9" d="M1787 1742l9-30-6-5-9 30z"/><path class="v10" d="M1771 1721l8 23-6-15-8-29zM1599 1804l8-22-6-19-8 19z"/><path class="v13" d="M1762 1694l9 27-6-21-8-42zM1634 1752l8-10 9-10 9 0 8-9 9-7-6-24-9 8-8 8-9-11-9 13-9 8z"/><path class="v16" d="M1754 1664l8 30-5-36-9-36z"/><path class="v19" d="M1746 1638l8 26-6-42-8-34z"/><path class="v20" d="M1737 1623l9 15-6-50-9-15zM1720 1659l9-26-6-57-9 32z"/><path class="v21" d="M1729 1633l8-10-6-50-8 3z"/><path class="v17" d="M1703 1691l8-20-6-37-8 25z"/><path class="v15" d="M1694 1702l9-11-6-32-9 13z"/><path class="v12" d="M1616 1764l9-6 9-6-7-34-8 9-9 19z"/><path class="v11" d="M1607 1782l9-18-6-18-9 17z"/><path class="v7" d="M1582 1839l8-19-6-12-8 19z"/><path class="v5" d="M1564 1859l9-8 9-12-6-12-9 11-9 14z"/><path class="v3" d="M1538 1893l9-9 9-14-6-7-9 14-9 4z"/><path class="v0" d="M1891 1797l8-2 8-3 8-3-6-2-8 5-8 3-8 1zM1491 1942l9-10-6-2-8 7z"/><path class="v1" d="M1875 1795l8 2 8 0-6-1-8-2-8 1zM1500 1932l9-4 9-9 9-5-6-7-9 5-9 3-9 15z"/><path class="v2" d="M1851 1792l8 7 8-12 8 8-6 0-8-2-9 5-8-10zM1527 1914l8-12 9 3 9-11-6-10-9 9-9 8-8 6z"/><path class="v4" d="M1843 1772l8 20-7-4-7-26zM1562 1886l8-11 9-19-6-5-9 8-8 11z"/><path class="v8" d="M1835 1721l8 51-6-10-8-53zM1605 1821l9-17-7-22-8 22z"/><path class="v14" d="M1828 1647l7 74-6-12-7-83zM1709 1716l8-10-6-35-8 20z"/><path class="v17" d="M1811 1661l9-36 8 22-6-21-8-27-9 42zM1735 1682l8 3 9 12-6-59-9-15-8 10z"/><path class="v13" d="M1802 1726l9-65-6-20-9 71zM1760 1705l8 19-6-30-8-30zM1700 1729l9-13-6-25-9 11z"/><path class="v9" d="M1793 1757l9-31-6-14-9 30zM1777 1737l8 19-6-12-8-23z"/><path class="v7" d="M1785 1756l8 1-6-15-8 2zM1596 1833l9-12-6-17-9 16z"/><path class="v11" d="M1768 1724l9 13-6-16-9-27zM1640 1765l8-5 9 0 9-6-6-22-9 0-9 10-8 10z"/><path class="v15" d="M1752 1697l8 8-6-41-8-26zM1717 1706l9-3-6-44-9 12z"/><path class="v16" d="M1726 1703l9-21-6-49-9 26z"/><path class="v12" d="M1666 1754l8-3 9-9 9-7 8-6-6-27-8 9-9 5-9 7-8 9z"/><path class="v10" d="M1614 1804l8-21 9-4 9-14-6-13-9 6-9 6-9 18z"/><path class="v6" d="M1588 1846l8-13-6-13-8 19z"/><path class="v5" d="M1579 1856l9-10-6-7-9 12z"/><path class="v3" d="M1553 1894l9-8-6-16-9 14z"/><path class="v0" d="M1913 1794l8 2-6-7-8 3zM1497 1943l9-5-6-6-9 10z"/><path class="v1" d="M1881 1796l8 1 8 2 8-6 8 1-6-2-8 3-8 2-8 0-8-2zM1506 1938l9-8 8-11 9 4-5-9-9 5-9 9-9 4z"/><path class="v2" d="M1857 1794l8 5 8-9 8 6-6-1-8-8-8 12-8-7zM1532 1923l9-11 9-6 9-7-6-5-9 11-9-3-8 12z"/><path class="v3" d="M1849 1780l8 14-6-2-8-20zM1559 1899l8-11 9-5-6-8-8 11-9 8z"/><path class="v7" d="M1841 1741l8 39-6-8-8-51zM1611 1837l9-13-6-20-9 17z"/><path class="v12" d="M1834 1683l7 58-6-20-7-74zM1808 1747l9-52-6-34-9 65zM1758 1726l8 9-6-30-8-8zM1715 1746l8-4 9-4-6-35-9 3-8 10z"/><path class="v15" d="M1817 1695l9-30 8 18-6-36-8-22-9 36z"/><path class="v8" d="M1799 1778l9-31-6-21-9 31zM1783 1761l8 16-6-21-8-19zM1620 1824l8-12-6-29-8 21z"/><path class="v6" d="M1791 1777l8 1-6-21-8-1zM1602 1846l9-9-6-16-9 12z"/><path class="v9" d="M1774 1747l9 14-6-24-9-13zM1628 1812l9-16 9-5-6-26-9 14-9 4z"/><path class="v11" d="M1766 1735l8 12-6-23-8-19zM1698 1768l8-6 9-16-6-30-9 13-8 6z"/><path class="v13" d="M1732 1738l9-16 8-2 9 6-6-29-9-12-8-3-9 21z"/><path class="v10" d="M1646 1791l8-3 9-7 9-3 8 0 9-12 9 2-6-33-9 7-9 9-8 3-9 6-9 0-8 5z"/><path class="v5" d="M1585 1871l9-14 8-11-6-13-8 13-9 10z"/><path class="v4" d="M1576 1883l9-12-6-15-9 19z"/><path class="v0" d="M1919 1798l8 1-6-3-8-2zM1503 1951l9-5-6-8-9 5z"/><path class="v1" d="M1887 1797l8 0 8 3 8-4 8 2-6-4-8-1-8 6-8-2-8-1zM1512 1946l9-8 9-2 8-4 9-8-6-12-9 11-9-4-8 11-9 8z"/><path class="v2" d="M1863 1806l8 1 8-4 8-6-6-1-8-6-8 9-8-5zM1547 1924l9-5 9-9 8-11-6-11-8 11-9 7-9 6z"/><path class="v3" d="M1855 1790l8 16-6-12-8-14zM1573 1899l9-6 9-9-6-13-9 12-9 5z"/><path class="v6" d="M1847 1755l8 35-6-10-8-39zM1789 1784l8 8-6-15-8-16zM1617 1851l9-13-6-14-9 13z"/><path class="v10" d="M1839 1710l8 45-6-14-7-58zM1814 1766l9-42-6-29-9 52zM1755 1757l9-6 8 13-6-29-8-9-9-6zM1729 1772l9-12 9-3-6-35-9 16-9 4z"/><path class="v12" d="M1823 1724l8-25 8 11-5-27-8-18-9 30z"/><path class="v7" d="M1805 1787l9-21-6-19-9 31zM1626 1838l8-8-6-18-8 12z"/><path class="v5" d="M1797 1792l8-5-6-9-8-1zM1600 1872l8-5 9-16-6-14-9 9-8 11z"/><path class="v8" d="M1780 1769l9 15-6-23-9-14zM1634 1830l9-15 9-7 8 3 9-9 9-4 8-2-6-18-8 0-9 3-9 7-8 3-9 5-9 16z"/><path class="v9" d="M1772 1764l8 5-6-22-8-12zM1686 1796l9-2 9-10 8-3 9-4 8-5-6-30-8 4-9 16-8 6-9-2-9 12z"/><path class="v11" d="M1747 1757l8 0-6-37-8 2z"/><path class="v4" d="M1591 1884l9-12-6-15-9 14z"/><path class="v0" d="M1925 1805l9 0-7-6-8-1zM1509 1953l9-1 9-4 9-2-6-10-9 2-9 8-9 5z"/><path class="v1" d="M1869 1817l8-5 8-1 8-1 8 1 8-3 9-7 7 4-6-7-8-2-8 4-8-3-8 0-8 6-8 4-8-1zM1536 1946l8-11 9-13-6 2-9 8-8 4z"/><path class="v2" d="M1861 1808l8 9-6-11-8-16zM1553 1922l9-7 9-3 8-10 9 1-6-10-9 6-8 11-9 9-9 5z"/><path class="v5" d="M1853 1781l8 27-6-18-8-35zM1795 1796l8 10-6-14-8-8zM1623 1858l9-10-6-10-9 13z"/><path class="v8" d="M1845 1745l8 36-6-26-8-45zM1820 1781l8-26-5-31-9 42zM1753 1777l8-1 8 10 9 0-6-22-8-13-9 6-8 0zM1727 1799l8-12 9-15-6-12-9 12-8 5zM1710 1799l8 0-6-18-8 3z"/><path class="v10" d="M1828 1755l9-18 8 8-6-35-8-11-8 25z"/><path class="v6" d="M1811 1798l9-17-6-15-9 21zM1786 1791l9 5-6-12-9-15zM1632 1848l8-2 9-9-6-22-9 15-8 8z"/><path class="v4" d="M1803 1806l8-8-6-11-8 5zM1606 1882l8-4 9-20-6-7-9 16-8 5z"/><path class="v7" d="M1778 1786l8 5-6-22-8-5zM1718 1799l9 0-6-22-9 4zM1649 1837l9-7 9-7 8-2 9-4 8-2 9-12 9-4-6-15-9 10-9 2-8 2-9 4-9 9-8-3-9 7z"/><path class="v9" d="M1744 1772l9 5-6-20-9 3z"/><path class="v3" d="M1588 1903l9-6 9-15-6-10-9 12-9 9z"/><path class="v0" d="M1932 1808l8-1-6-2-9 0zM1907 1818l8 0-6-10-8 3zM1515 1959l8-6 9-1 9-4-5-2-9 2-9 4-9 1z"/><path class="v1" d="M1915 1818l9-4 8-6-7-3-7-4-9 7zM1875 1820l8 0 8-8 8 5 8 1-6-7-8-1-8 1-8 1-8 5zM1541 1948l9-11 9-2-6-13-9 13-8 11z"/><path class="v2" d="M1867 1815l8 5-6-3-8-9zM1559 1935l9-8 9-2 8-11 9-5 9-9-6-3-9 6-9-1-8 10-9 3-9 7z"/><path class="v4" d="M1859 1796l8 19-6-7-8-27zM1800 1819l9 0 8-8-6-13-8 8-8-10zM1620 1892l9-14-6-20-9 20z"/><path class="v6" d="M1851 1772l8 24-6-15-8-36zM1826 1799l8-16-6-28-8 26zM1775 1805l9 1-6-20-9 0zM1716 1816l8 5 9-9-6-13-9 0-8 0zM1655 1856l9-10 9-4 8-7 9-2 9-14 8 1-6-17-9 12-8 2-9 4-8 2-9 7-9 7z"/><path class="v8" d="M1843 1772l8 0-6-27-8-8zM1741 1803l9-9 9 7-6-24-9-5-9 15z"/><path class="v7" d="M1834 1783l9-11-6-35-9 18zM1759 1801l8-2 8 6-6-19-8-10-8 1zM1733 1812l8-9-6-16-8 12zM1707 1820l9-4-6-17-9 4z"/><path class="v5" d="M1817 1811l9-12-6-18-9 17zM1784 1806l8 10 8 3-5-23-9-5-8-5zM1629 1878l9-12 8-8 9-2-6-19-9 9-8 2-9 10z"/><path class="v3" d="M1603 1900l9-12 8 4-6-14-8 4-9 15z"/><path class="v0" d="M1905 1825l9-7 8 4 8-4 8-3 8-3-6-5-8 1-8 6-9 4-8 0-8-1zM1520 1964l9-5 9-5 9-6-6 0-9 4-9 1-8 6z"/><path class="v1" d="M1881 1823l8 6 8-6 8 2-6-8-8-5-8 8-8 0zM1547 1948l9-7 9 0 9-5 9-8-6-3-9 2-9 8-9 2-9 11z"/><path class="v2" d="M1873 1819l8 4-6-3-8-5zM1583 1928l8-9 9-5 9-8-6-6-9 9-9 5-8 11z"/><path class="v3" d="M1865 1810l8 9-6-4-8-19zM1807 1823l8 8 8-1-6-19-8 8-9 0zM1609 1906l9-8 8-4 9-13-6-3-9 14-8-4-9 12z"/><path class="v5" d="M1832 1819l8-14 9-11 8 5 8 11-6-14-8-24-8 0-9 11-8 16zM1773 1818l8 1 9 4-6-17-9-1-8-6zM1661 1867l9-8 9-5 8-7 9-4-6-10-9 2-8 7-9 4-9 10z"/><path class="v4" d="M1823 1830l9-11-6-20-9 12zM1790 1823l8 4 9-4-7-4-8-3-8-10zM1635 1881l9-2 9-5 8-7-6-11-9 2-8 8-9 12z"/><path class="v6" d="M1696 1843l9-2 8-5 9-8 8-2 9-6 9-3 8 0 9-1 8 2-6-19-8 2-9-7-9 9-8 9-9 9-8-5-9 4-8-1-9 14z"/><path class="v0" d="M1928 1821l8 1 8-2 8-5-6-3-8 3-8 3-8 4zM1526 1969l9-9 9-3-6-3-9 5-9 5z"/><path class="v1" d="M1879 1829l8 1 8-3 8-1 9-4 8-1 8 0-6 1-8-4-9 7-8-2-8 6-8-6-8-4zM1544 1957l9-2 9-6 9-2 9 0 9-10 8-6-6-12-8 9-9 8-9 5-9 0-9 7-9 6z"/><path class="v2" d="M1871 1824l8 5-6-10-8-9zM1597 1931l9-13 9-4 9-7-6-9-9 8-9 8-9 5z"/><path class="v3" d="M1863 1820l8 4-6-14-8-11zM1796 1835l8 3 9 0 8 2 8-12 9-2 8-6-6-15-8 14-9 11-8 1-8-8-9 4-8-4zM1624 1907l8-5 9-9 9-9 9-2-6-8-9 5-9 2-9 13-8 4z"/><path class="v4" d="M1846 1820l8-4 9 4-6-21-8-5-9 11zM1779 1829l8 4 9 2-6-12-9-4-8-1zM1659 1882l8-12 9-3 9 0 8-10-6-10-8 7-9 5-9 8-8 7z"/><path class="v5" d="M1693 1857l9-4 9-2 8-10 9-6 8 1 9-5 9-4 8 2 9-2 8 2-6-11-8-2-9 1-8 0-9 3-9 6-8 2-9 8-8 5-9 2-9 4z"/><path class="v0" d="M1934 1825l8 0 8-5 8-1-6-4-8 5-8 2-8-1zM1532 1973l9-2 9-9-6-5-9 3-9 9z"/><path class="v1" d="M1885 1834l8-2 8 0 9-6 8-3 8 4 8-2-6-4-8 0-8 1-9 4-8 1-8 3-8-1zM1550 1962l9-5 9 0 9-5 9-6 9 0 8-11-6-4-8 6-9 10-9 0-9 2-9 6-9 2z"/><path class="v2" d="M1869 1828l8 3 8 3-6-5-8-5-8-4zM1810 1850l9 0 8 2 8-8 9-2-6-16-9 2-8 12-8-2-9 0zM1603 1935l9-11 9-5 9 1 8-7-6-11-8 5-9 7-9 4-9 13z"/><path class="v3" d="M1844 1842l8-1 9-16 8 3-6-8-9-4-8 4-8 6zM1793 1847l9 4 8-1-6-12-8-3-9-2zM1638 1913l9-12 9-8 9-9-6-2-9 2-9 9-9 9z"/><path class="v4" d="M1768 1847l9-5 8 6 8-1-6-14-8-4-8-2-9 2zM1665 1884l8-4 9-6 9-4 8-7 9 3 9-9-6-6-9 2-9 4-8 10-9 0-9 3-8 12z"/><path class="v5" d="M1717 1857l8-4 9-6 9-1 8-6 9 1 8 6-6-18-8-2-9 4-9 5-8-1-9 6-8 10z"/><path class="v0" d="M1932 1832l8 0 8-5 8 1 9-7-7-2-8 1-8 5-8 0-8 2zM1574 1959l9-1-6-6-9 5zM1538 1979l9-3 9-12-6-2-9 9-9 2z"/><path class="v1" d="M1883 1839l8 4 8-5 9-3 8-2 8 0 8-1-6-5-8-4-8 3-9 6-8 0-8 2-8-3zM1583 1958l9-8 9-2 8-6 9-6-6-12-9 11-8 11-9 0-9 6zM1556 1964l9-2 9-3-6-2-9 0-9 5z"/><path class="v2" d="M1808 1857l8 3 9-7 8-3 9 1 8-1 8-3 9-4 8-3 8-1-6-8-8-3-8-3-9 16-8 1-9 2-8 8-8-2-9 0-8 1zM1618 1936l9-5 9 0 9-7 8-13-6-10-9 12-8 7-9-1-9 5z"/><path class="v3" d="M1783 1849l8 3 9 3 8 2-6-6-9-4-8 1-8-6zM1653 1911l9-1 9-12 8-6-6-12-8 4-9 9-9 8z"/><path class="v4" d="M1679 1892l9-8 9-1 8-2 9-6 9-2 8-5 9-9 9-4 8 0 9-7 8 3 9-2-6-7-9 5-8-6-9-1-8 6-9 1-9 6-8 4-9 9-9-3-8 7-9 4-9 6z"/><path class="v0" d="M1930 1842l8-6 9-2 8 1 8-3 8-3-6-8-9 7-8-1-8 5-8 0-8 1z"/><path class="v1" d="M1873 1847l8-1 8 5 8 2 9-2 8-9 8-3 8 3-6-9-8 0-8 2-9 3-8 5-8-4-8 1-8 3zM1856 1861l8-13-6-1-8 3zM1544 1977l9-8 9 5 9-6 9-7 9 2 9-9 8-7 9-3 9-3 9-4 9-1 9-7-6-5-9 7-9 0-9 5-9 6-8 6-9 2-9 8-9 1-9 3-9 2-9 12-9 3z"/><path class="v2" d="M1864 1848l9-1-6-4-9 4zM1806 1864l8-3 9 1 8-5 8 0 9-3 8 7-6-11-8 1-9-1-8 3-9 7-8-3-8-2zM1651 1929l8-8 9-3 9-10-6-10-9 12-9 1-8 13z"/><path class="v3" d="M1780 1858l9 3 8 5 9-2-6-9-9-3-8-3-9 2zM1677 1908l9-6 8-9 9-2 9-4 8-4 9-6 9-2-7-7-8 5-9 2-9 6-8 2-9 1-9 8-8 6z"/><path class="v4" d="M1738 1875l8-6 9-1 8-2 9 1 8-9-6-7-8-3-9 7-8 0-9 4-9 9z"/><path class="v0" d="M1953 1840l8-1 8-7 8 2-6-5-8 3-8 3-8-1zM1936 1846l9-8-7-2-8 6zM1904 1855l8 0-6-4-9 2z"/><path class="v1" d="M1945 1838l8 2-6-6-9 2zM1912 1855l8-7 8-7 8 5-6-4-8-3-8 3-8 9zM1879 1855l8-1 8 4 9-3-7-2-8-2-8-5-8 1zM1550 1980l9-8 9 1 9-3 9-4 9-3 9-3 9-7 8-2 9-3 9-6 9 3 9-4 8-13-6-7-8 8-9 7-9 1-9 4-9 3-9 3-8 7-9 9-9-2-9 7-9 6-9-5-9 8z"/><path class="v2" d="M1803 1877l9 2 8-6 9-8 8-5 9-1 8-3 8-4 9-3 8 6-6-8-9 1-8 13-8-7-9 3-8 0-8 5-9-1-8 3-9 2zM1665 1928l9-4 9-12 9-5-6-5-9 6-9 10-9 3z"/><path class="v3" d="M1692 1907l8-3 9-1 9-3 8-4 9-7 9-5 8-2 9-8 8 1 9 6 8 1 9-11 8 6-6-11-8-5-9-3-8 9-9-1-8 2-9 1-8 6-9 2-9 6-8 4-9 4-9 2-8 9z"/><path class="v0" d="M1943 1853l8-6 8-4 8-5 8 2 8-3-6-3-8-2-8 7-8 1-8-2-9 8zM1902 1863l8-4 8 1 8-5-6-7-8 7-8 0-9 3z"/><path class="v1" d="M1926 1855l9-5 8 3-7-7-8-5-8 7zM1893 1855l9 8-7-5-8-4zM1556 1984l9-5 9 0 9 0 9 1 9-8 9-5 9-7 8-6 9 0 9-2 9-5 9-4 8-9 9 0-6-10-9 4-8 13-9 4-9-3-9 6-9 3-8 2-9 7-9 3-9 3-9 4-9 3-9-1-9 8z"/><path class="v2" d="M1784 1885l9-3 8-2 9-1 8-6 9 0 8 0 8-3 9-6 8 3 8-5 9-2 8-9 8 4-6-1-8 1-8-6-9 3-8 4-8 3-9 1-8 5-9 8-8 6-9-2-8-6-9 11-8-1zM1680 1934l9-8 9-9 8-3 9-3 9 2 8-8 9-8-6-8-9 7-8 4-9 3-9 1-8 3-9 5-9 12z"/><path class="v3" d="M1741 1897l9-5 8-2 9-7 9 3 8-1-6-4-9-6-8-1-9 8-8 2-9 5z"/><path class="v0" d="M1982 1838l8 2-7-3-8 3zM1941 1854l8 1 8-1 8-4 9-5-7-7-8 5-8 4-8 6-8-3zM1589 1984l9-4 9-3-6-5-9 8-9-1z"/><path class="v1" d="M1974 1845l8-7-7 2-8-2zM1900 1856l8 4 8 4 8-10 9-2 8 2-6-4-9 5-8 5-8-1-8 4-9-8zM1866 1871l9 2 8-4-6-9-9 2-8 5zM1686 1934l9-1-6-7-9 8zM1607 1977l9-10 9-3 9 1 8-7 9 0 9-6 9-10 9-7-7-1-8 9-9 4-9 5-9 2-9 0-8 6-9 7-9 5zM1562 1983l9 2 9-4 9 3-6-5-9 0-9 0-9 5z"/><path class="v2" d="M1883 1869l8-7 9-6-7-1-8-4-8 9zM1695 1933l9-6 9-7 8 4 9-1 9-7 8-7 9-11 9 1 8-1 9-6 8-5 9 1 8 3 9-4 8-5 9 5 8-4 9-14 8 1 8 1-6-4-8-3-9 6-8 3-8 0-9 0-8 6-9 1-8 2-9 3-8 1-9-3-9 7-8 2-9 5-9 8-8 8-9-2-9 3-8 3-9 9zM1678 1935l8-1-6 0-9 0z"/><path class="v0" d="M1988 1845l8 0-6-5-8-2zM1947 1859l8 1 8-3 9-4 8-3-6-5-9 5-8 4-8 1-8-1zM1604 1986l9-6-6-3-9 3z"/><path class="v1" d="M1980 1850l8-5-6-7-8 7zM1873 1875l8-2 8-1 9-6 8-2 8 0 8-2 9 0 8 0 8-3-6-5-8-2-9 2-8 10-8-4-8-4-9 6-8 7-8 4-9-2zM1830 1888l9 1 8-3-6-3-8 4-9-5zM1813 1897l9 1-6-11-9 4zM1719 1940l8-2 9-9 9-12-6-1-9 7-9 1-8-4zM1692 1938l9-1 9 3-6-13-9 6-9 1zM1613 1980l9-10 9 4 9-2 8-11 9 2 9-3 9-8 9-7-6-10-9 7-9 10-9 6-9 0-8 7-9-1-9 3-9 10zM1568 1992l9-8 9 2 9-3 9 3-6-6-9 4-9-3-9 4-9-2z"/><path class="v2" d="M1847 1886l9-3 8-8 9 0-7-4-8-1-8-1-9 14zM1822 1898l8-10-6-6-8 5zM1745 1917l8 2 9-9 9-7 8 0 9-7 8-3 9-4 8 8-6-6-8-3-9-1-8 5-9 6-8 1-9-1-9 11-8 7zM1710 1940l9 0-6-20-9 7zM1684 1945l8-7-6-4-8 1z"/><path class="v0" d="M1953 1862l9 4 8-7 8-4 8-3 8-2 8-1-6-4-8 0-8 5-8 3-9 4-8 3-8-1zM1663 1975l9-5-6-10-9 3zM1637 1980l9-6-6-2-9 2z"/><path class="v1" d="M1820 1906l8-1 9-2 8-9 9-2 8 0 8-1 9-10 8-2 9-5 8-4 8-3 8 7 9-4 8-5 8-6 8 3-6-3-8 3-8 0-9 0-8 2-8 0-8 2-9 6-8 1-8 2-9 0-8 8-9 3-8 3-9-1-8 10-9-1zM1672 1970l9-6 9-12 9 0 8-6 9 4 9-2 9-13 8-5 9 0 9-1 8-8-6-11-9 9-8-2-9 12-9 9-8 2-9 0-9-3-9 1-8 7-9 7-9 8zM1646 1974l9-6 8 7-6-12-9-2-8 11zM1574 1999l9 0 9-6 9-6 9-2 9 2 9-4 9-3-6-6-9-4-9 10-9 6-9-3-9 3-9-2-9 8z"/><path class="v2" d="M1768 1921l9-7 8-1 9-2 9-9 8-5 9 9-7-9-8-8-9 4-8 3-9 7-8 0-9 7z"/><path class="v0" d="M1960 1867l8 1 8-3 8-1 9-8 8 0 8-9-7 2-8 1-8 2-8 3-8 4-8 7-9-4zM1722 1956l9-5-6-3-9 2zM1670 1978l8-3 9-7-6-4-9 6-9 5zM1616 1996l9-1 9-3 9-7 9-2-6-9-9 6-9 3-9 4-9-2zM1589 2008l9-3-6-12-9 6z"/><path class="v1" d="M1826 1911l8 1 9-3 8-6 9-5 8-3 9 2 8-9 9-5 8-5 8-4 9-3 8 7 8-2 8-4 9-2 8-3-7-5-8-3-8 6-8 5-9 4-8-7-8 3-8 4-9 5-8 2-9 10-8 1-8 0-9 2-8 9-9 2-8 1zM1731 1951l9-8 8 1 9-7 9-7 8-10 9 5 9-5 8-5-6-4-9 2-8 1-9 7-8 8-9 1-9 0-8 5-9 13zM1687 1968l9-10 9-4 9 5 8-3-6-6-9-4-8 6-9 0-9 12zM1652 1983l9-5 9 0-7-3-8-7-9 6zM1598 2005l9-5 9-4-6-11-9 2-9 6zM1580 2004l9 4-6-9-9 0z"/><path class="v2" d="M1800 1915l9-3 8-3 9 2-6-5-9-9-8 5-9 9z"/><path class="v1" d="M1991 1861l8-4 8 0 8-3-6-7-8 9-8 0-9 8zM1849 1919l8-5 9-5 8-6 9 3 8-12 9-6 8-4 8 1 9-1 8-3 8 0 9-1 8-7 8-5 8-1-6 1-8-1-8 3-9 2-8 4-8 2-8-7-9 3-8 4-8 5-9 5-8 9-9-2-8 3-9 5-8 6zM1685 1980l8-12 9 0 9-7 9-4 8 0 9-1 9-8 9-4 8-6 9-5 9-3 8 3 9-11 9-2 8 4 9-8 8 0 9 1-7-5-8-1-9-2-8 3-9 3-8 5-9 5-9-5-8 10-9 7-9 7-8-1-9 8-9 5-8 3-9-5-9 4-9 10-9 7z"/><path class="v0" d="M1974 1867l8 4 9-10-7 3-8 1-8 3zM1841 1917l8 2-6-10-9 3zM1586 2010l9-2 9-1 9-6 9 2 9-8 9-5 9 4 9-10 9 3 9-5 9-2-7-5-8 3-9 0-9 5-9 2-9 7-9 3-9 1-9 4-9 5-9 3-9-4z"/><path class="v0" d="M2014 1862l8-2-7-6-8 3zM1981 1877l8-6 8-4-6-6-9 10-8-4zM1948 1888l8-1 8-6-6-8-8 7-9 1zM1855 1920l9-5-7-1-8 5zM1601 2010l9 2 9-6 9-4 9 0 9-1 9-6 9-1 9-5 9-6 9 1-6-4-9 2-9 5-9-3-9 10-9-4-9 5-9 8-9-2-9 6-9 1z"/><path class="v1" d="M1997 1867l8 0 9-5-7-5-8 0-8 4zM1964 1881l8-3 9-1-7-10-8 1-8 5zM1864 1915l8-6 9-7 8 5 9-8 8-4 9-7 8 5 8-2 8-3 9 0-7-7-8 0-8 3-9 1-8-1-8 4-9 6-8 12-9-3-8 6-9 5zM1691 1984l9-17 8 3 9-5 9-7 9 2 8-3 9-3 9-4 9-1 8-7 9-4 9-2 8-11 9-2 8 5 9-9 8 2 9-3 8 2-6-1-8-2-9-1-8 0-9 8-8-4-9 2-9 11-8-3-9 3-9 5-8 6-9 4-9 8-9 1-8 0-9 4-9 7-9 0-8 12zM1592 2010l9 0-6-2-9 2z"/><path class="v0" d="M1937 1894l9 3 8-3 8-4 9-5 8-4 8 0 8-6 8 0 9-6 8-1 8-2-6-6-8 2-9 5-8 0-8 4-8 6-9 1-8 3-8 6-8 1-9 0-8 3zM1608 2023l9-5 9-2 9-7 9-4 8 1 9-7 9-4 9-5 9-4 9-2-6 0-9-1-9 6-9 5-9 1-9 6-9 1-9 0-9 4-9 6-9-2z"/><path class="v1" d="M1697 1984l9-8 9-1 8-8 9 1 9 4 9-8 8-7 9 1 9-2 8-9 9 0 9-6 8-8 9-6 9 3 8-5 9-9 8 5 9-2 8-9 9 6 8 1 9-18 8-1 9-2 8-8 8 9 8-3-6-3-8 2-8-5-9 7-8 4-9 8-8-5-9 7-8 6-9 5-8-2-9 3-8-2-9 9-8-5-9 2-8 11-9 2-9 4-8 7-9 1-9 4-9 3-8 3-9-2-9 7-9 5-8-3-9 17zM1598 2019l10 4-7-13-9 0z"/><path class="v0" d="M1944 1900l8-1 8-5 9 2 8-4 8-6 9-3 8-2 8-3 8-3 8-3 8-2-6-4-8 2-8 1-9 6-8 0-8 6-8 0-8 4-9 5-8 4-8 3-9-3zM1885 1922l8-4-6-1-8-1zM1773 1966l9-2-6-8-9 2zM1747 1972l9-3-6-5-9 8zM1605 2029l9-5 9-6 9-1 9-1 9-3 9-11 9 1 8-6-6-2-9 4-9 7-8-1-9 4-9 7-9 2-9 5-10-4z"/><path class="v1" d="M1893 1918l9-4 8-11 9 0 8 0 8 2 9-5-7-6-8 3-8-9-8 8-9 2-8 1-9 18zM1860 1918l8 6 8 0 9-2-6-6-9-6-8 9-9 2zM1782 1964l9-14 8-5 9 1 9-1 8-12 9-3-6 0-9-3-9 6-8 8-9 6-9 0-8 9zM1756 1969l9 1 8-4-6-8-9-1-8 7zM1676 1997l9-2 9-2 9-9 9-4 9 4 9-10 8 0 9-2-6 0-9-4-9-1-8 8-9 1-9 8-9 2-9 4-9 5z"/><path class="v2" d="M1834 1930l9-11 8-4 9 3-7 3-8-5-9 9-8 5z"/><path class="v1" d="M2025 1878l8-9 8-5-7 6-8 2-8 3zM1908 1923l9-12 8 7 8-3-6-12-8 0-9 0-8 11zM1866 1930l8 1 9-2-7-5-8 0-8-6zM1780 1964l8 1 9-6 9-3 8-9 9 1 9-6 8-1-6-11-9 3-8 12-9 1-9-1-8 5-9 14-9 2zM1700 1999l9-5 9-1 9-8 9 0 9-5-7-6-8 0-9 10-9-4-9 4-9 9zM1665 2010l9-4 9-10 9 5-7-6-9 2-8 6-9-1z"/><path class="v0" d="M1933 1915l9-5 8-4 8 1 9-6 8-3 8-5 9-1 8-6 8-2 8 2 9-8-7-3-8 3-8 3-8 2-9 3-8 6-8 4-9-2-8 5-8 1-9 5-8-2zM1883 1929l8-3 9-2 8-1-6-9-9 4-8 4-9 2zM1745 1980l8 1 9-5 9-4 9-8-7 2-8 4-9-1-9 3-9 2zM1692 2001l8-2-6-6-9 2zM1611 2029l9-2 9 0 9-3 9-2 9-5 9-7-6-8-9 11-9 3-9 1-9 1-9 6-9 5z"/><path class="v2" d="M1840 1941l9-10 9-6 8 5-6-12-9-3-8 4-9 11z"/><path class="v1" d="M2031 1882l8-6 9-1-7-11-8 5-8 9zM1982 1899l8-6 8-1-6 0-9 1-8 5zM1915 1923l8-4 8 4-6-5-8-7-9 12zM1889 1938l9-11 8 0-6-3-9 2-8 3zM1803 1968l9-4 9-8 8-5 9-5 9 2 8-1 9-11 8 3 9 1-7-9-8-1-8-5-9 6-9 10-8 1-9 6-9-1-8 9-9 3zM1777 1979l9-5 9-3-7-6-8-1-9 8zM1733 1989l9-5 9 0-6-4-9 5-9 0zM1680 2010l9-11 9 3-6-1-9-5-9 10z"/><path class="v0" d="M1998 1892l8 1 9-2 8-7 8-2-6-4-9 8-8-2-8 2-8 6zM1931 1923l9-3 8-4 9-4 8-3 8-7 9-3-7-1-8 3-9 6-8-1-8 4-9 5-8 3zM1906 1927l9-4-7 0-8 1zM1881 1940l8-2-6-9-9 2zM1795 1971l8-3-6-9-9 6zM1751 1984l9-3 8 1 9-3-6-7-9 4-9 5-8-1zM1698 2002l9 4 9-3 8-4 9-10-6-4-9 8-9 1-9 5-8 2zM1617 2036l9-1 9-6 9 1 9-5 9-3 9-7 9-5-6-4-9 4-9 7-9 5-9 2-9 3-9 0-9 2z"/><path class="v1" d="M2038 1886l8-7 8-3-6-1-9 1-8 6zM1980 1906l8-7 8-1 9-3 8-2-7 0-8-1-8 1-8 6-9 3zM1904 1938l8-1 9-12 8 5-6-11-8 4-9 4-8 0zM1818 1973l9-9 9-5 8 0 9-6 8-4 9-2 8 1-6-9-8-3-9 11-8 1-9-2-9 5-8 5-9 8zM1740 2000l8-3 9-10 9 3-6-9-9 3-9 0-9 5zM1686 2016l9-5 9-6 9 6-6-5-9-4-9-3-9 11z"/><path class="v0" d="M2013 1893l8 1 8 0 9-8-7-4-8 2-8 7-9 2zM1929 1930l9-4 8-2 9-4 8-4 8-4 9-6-7-4-8 7-8 3-9 4-8 4-9 3-8-4zM1878 1948l9-3 9-2 8-5-6-11-9 11-8 2-9-1zM1766 1990l9-3 9-6 8 1 9-8 9 1 8-2-6-9-9 4-8 3-9 3-9 5-9 3-8-1zM1713 2011l9-5 9-5 9-1-7-11-9 10-8 4-9 3zM1623 2043l9-4 9-2 9-2 9-5 9-3 9-6 9-5-6-6-9 5-9 7-9 3-9 5-9-1-9 6-9 1z"/><path class="v1" d="M2044 1892l9-9 8-4-7-3-8 3-8 7zM1969 1920l9-10 8-2 9-11 8 0 8-1 8 3 9-1-7-4-8-1-8 2-9 3-8 1-8 7-9 6-8 4zM1919 1938l8 0 9-6-7-2-8-5-9 12zM1833 1974l9-15 9 3 8-5 9 4 8-12 9 6-7-7-8-1-9 2-8 4-9 6-8 0-9 5zM1799 1979l8-8 9 3-6 1-9-1-9 8zM1701 2021l9-4 9-2-6-4-9-6-9 6z"/><path class="v0" d="M2028 1898l8-3 8-3-6-6-9 8-8 0zM1936 1932l8-5 9 3 8-9 8-1-6-4-8 4-9 4-8 2-9 4zM1885 1955l8-5 9-8 9-1 8-3-7-1-8 1-8 5-9 2-9 3zM1816 1974l9 1 8-1-6-10-9 9-8 2zM1719 2015l9-7 9-2 9 0 9-5 9-4 8 0 9-8 9 1 9-11-7 3-8-1-9 6-9 3-9-3-9 10-8 3-9 1-9 5-9 5zM1629 2044l9-4 9 3 10-8 9 1 9-8 9 0 8-4 9-3-6-10-9 5-9 5-9 6-9 3-9 5-9 2-9 2-9 4z"/></g>
<path d="M808.9 1042.3L1059.6 948.2M642.4 911.4L808.9 1042.3M642.4 911.4L633.7 710.5M830.7 1038.1L825.3 1034M792.3 1034.1L798.7 1031.7M886.9 1017L881.5 1012.9M754.4 1004.2L760.8 1001.9M941.7 996.4L936.2 992.4M717.9 975.5L724.3 973.2M995 976.3L989.4 972.5M682.7 947.8L689.1 945.6M1046.9 956.8L1041.3 953M648.8 921.1L655.3 919M636.6 875.5L643.1 873.4M634.9 836.8L641.4 834.7M633.2 796.8L639.7 794.8M631.4 756L638 754M629.7 714.9L636.2 713" stroke="#111" stroke-width="0.85" fill="none"/>
<g class="tk" font-size="14"><text x="836.4" y="1063.3">−10</text><text x="784.2" y="1058.2">−10</text><text x="892.3" y="1041.8">−5</text><text x="746.3" y="1027.9">−5</text><text x="946.8" y="1020.9">0</text><text x="709.8" y="998.7">0</text><text x="999.8" y="1000.5">5</text><text x="674.7" y="970.6">5</text><text x="1051.5" y="980.6">10</text><text x="640.8" y="943.5">10</text></g>
<text class="al" x="961.7" y="1041.8" font-size="16.4">x</text>
<text class="al" x="688.8" y="1014" font-size="16.4">y</text>
<text class="zl" transform="translate(615.2 813) rotate(87.5)" font-size="16.4">|<tspan class="i">u</tspan>(<tspan class="i">x</tspan>,<tspan class="i" dx="3.2">y</tspan>)|</text>
<linearGradient id="g3" x1="0" y1="0" x2="0" y2="1"><stop offset="0%" stop-color="#fde725"/><stop offset="6.2%" stop-color="#d8e219"/><stop offset="12.5%" stop-color="#addc30"/><stop offset="18.8%" stop-color="#84d44b"/><stop offset="25%" stop-color="#5ec962"/><stop offset="31.2%" stop-color="#3fbc73"/><stop offset="37.5%" stop-color="#28ae80"/><stop offset="43.8%" stop-color="#1fa088"/><stop offset="50%" stop-color="#21918c"/><stop offset="56.2%" stop-color="#26828e"/><stop offset="62.5%" stop-color="#2c728e"/><stop offset="68.8%" stop-color="#33638d"/><stop offset="75%" stop-color="#3b528b"/><stop offset="81.2%" stop-color="#424086"/><stop offset="87.5%" stop-color="#472d7b"/><stop offset="93.8%" stop-color="#48186a"/><stop offset="100%" stop-color="#440154"/></linearGradient>
<rect x="1085.3" y="688.3" width="20.1" height="295.1" fill="url(#g3)" stroke="#111" stroke-width="0.85"/>
<path d="M1105.4 926.8h3.3M1105.4 866.9h3.3M1105.4 807h3.3M1105.4 747.2h3.3" stroke="#111" stroke-width="0.85" fill="none"/>
<g class="cb" font-size="12.0"><text x="1112.3" y="930.3">2</text><text x="1112.3" y="870.5">4</text><text x="1112.3" y="810.6">6</text><text x="1112.3" y="750.8">8</text></g>
<text class="cb" font-size="12.0" x="1106" y="686.4" text-anchor="end">×10<tspan dy="-4.6" font-size="8.4">−2</tspan></text>
<text class="cap" transform="translate(862.4 1134.8) scale(1.06 1)" font-size="42" textLength="345.3" lengthAdjust="spacing">(d) FNO Prediction</text>
</g>
<g id="pe">
<path d="M1237.4 917.8L1468.3 841.4M1468.3 841.4L1638.5 953.2M1229.1 724.6L1469.6 656.3M1469.6 656.3L1647.3 756.4M1468.3 841.4L1469.6 656.3M1638.5 953.2L1647.3 756.4M1397.4 1043.6L1237.4 917.8M1397.4 1043.6L1638.5 953.2M1237.4 917.8L1229.1 724.6" stroke="#f0f0f0" stroke-width="0.9" fill="none"/>
<path d="M1415 1037L1254.2 912.2M1254.2 912.2L1246.6 719.6M1385.5 1034.2L1625.8 944.8M1625.8 944.8L1634 748.9M1469.1 1016.7L1305.8 895.2M1305.8 895.2L1300.4 704.3M1349 1005.5L1587.2 919.5M1587.2 919.5L1593.6 726.1M1521.7 997L1356.1 878.5M1356.1 878.5L1352.9 689.4M1313.9 978L1549.9 895M1549.9 895L1554.6 704.2M1572.9 977.8L1405.2 862.3M1405.2 862.3L1404 674.9M1280.1 951.4L1513.9 871.4M1513.9 871.4L1517.1 683.1M1622.8 959L1453.2 846.4M1453.2 846.4L1453.9 660.8M1247.6 925.8L1479.2 848.5M1479.2 848.5L1480.9 662.7M1236.2 889.6L1468.5 814.4M1468.5 814.4L1639.8 924.5M1234.7 854.6L1468.7 780.8M1468.7 780.8L1641.3 888.9M1233.1 819.1L1469 746.8M1469 746.8L1643 852.7M1231.5 782.5L1469.2 711.7M1469.2 711.7L1644.6 815.4M1229.9 744.1L1469.5 674.9M1469.5 674.9L1646.4 776.2" stroke="#b6b6b6" stroke-width="0.85" fill="none"/>
<g transform="scale(0.5)" stroke-width="1.3" stroke-linejoin="round"><path class="w11" d="M2927 1515l8 18-6-51-9 101zM2901 1495l8 130 10-141-7 11-8 41-9-71zM2867 1505l9 107-6-44-9-66zM2789 1551l9 34-6-32-9 15zM2719 1618l8-34 10 34-7-56-9 1-8 45zM2620 1630l8-17-7-58-6 116zM2563 1593l12 80 9-17-8-50-9 8-8 41zM2537 1649l12 76-12-188-6 119z"/><path class="w12" d="M2919 1484l8 31-7 68-8-88zM2893 1582l8-87-6-30-8 89zM2816 1621l8-92-6 8-9-53zM2763 1583l9 6 8-26 9-12-6 17-8 1-10-40-8 14zM2737 1618l8-89-6 54-9-21zM2628 1613l10 1 7-60-3 80-10-7-11-72zM2584 1656l7-61 10 41-5 8-10-43-10 5z"/><path class="w9" d="M2884 1567l9 15-6-28-9 33zM2612 1697l8-67-5 41-11-59zM2549 1725l8-21 6-111-4 62-6 76-16-194z"/><path class="w8" d="M2876 1612l8-45-6 20-8-19z"/><path class="w14" d="M2859 1566l8-61-6-3-9-57zM2806 1522l10 99-7-137-9-7zM2745 1529l9 8-6-3-9 49zM2665 1623l6-144 12 109-6 20-10-36-8 22z"/><path class="w15" d="M2841 1530l9-34 9 70-7-121-8 27-9 34z"/><path class="w13" d="M2824 1529l9-9 8 10-6-24-8 58-9-27zM2798 1585l8-63-6-45-8 76zM2754 1537l9 46-6-40-9-9zM2645 1554l10 14 10 55-6-29-10-35-7 75z"/><path class="w10" d="M2683 1588l10 62 8-53 9 35 9-14-6-10-9-11-9-4-9 26-9-11zM2601 1636l11 61-8-85-8 32zM2527 1637l10 12-6 7-8 42z"/><path class="w11" d="M2933 1506l8 76-6-49-8-18zM2899 1536l8-4 9-26 8 24-5-46-10 141-8-130-8 87zM2882 1599l9-178-7 146-8 45zM2865 1520l8 99-6-114-8 61zM2697 1585l10 10-6 2-8 53zM2634 1605l10 42-6-33-10-1zM2578 1606l11 37 9-5 10 34-7-36-10-41-7 61-9 17z"/><path class="w13" d="M2924 1530l9-24-6 9-8-31zM2830 1511l9 62 8-47 9 24 9-30-6 46-9-70-9 34-8-10-9 9zM2786 1566l9-35-6 20-9 12zM2751 1551l9 67 8-110 9 28-5 53-9-6-9-46-9-8zM2733 1556l8-35-4 97-10-34zM2660 1550l10 32-5 41-10-55zM2623 1551l11 54-6 8-8 17zM2558 1550l11 67-6-24-6 111z"/><path class="w12" d="M2891 1421l8 115-6 46-9-15zM2812 1521l9 30 9-40-6 18-8 92-10-99zM2777 1536l9 30-6-3-8 26zM2707 1595l7-74 10 43 9-8-6 28-8 34-9 14-9-35zM2644 1647l9-28-8-65-7 60zM2569 1617l9-11-3 67-12-80zM2532 1637l9-13-4 25-10-12z"/><path class="w8" d="M2873 1619l9-20-6 13-9-107zM2608 1672l10 36-6-11-11-61z"/><path class="w14" d="M2795 1531l8-45 9 35-6 1-8 63-9-34zM2741 1521l10 30-6-22-8 89zM2679 1550l10 96-6-58-12-109zM2653 1619l7-69-5 18-10-14z"/><path class="w10" d="M2689 1646l8-61-4 65-10-62zM2618 1708l5-157-3 79-8 67zM2541 1624l11 35 6-109-1 154-8 21-12-76z"/><path class="w15" d="M2670 1582l9-32-8-71-6 144z"/><path class="w11" d="M2939 1537l8-20-6 65-8-76zM2913 1556l9-6-6-44-9 26zM2845 1580l8-25-6-29-8 47zM2703 1568l11 96 8-25-8-118-7 74-10-10zM2622 1614l10 52-9-115-5 157zM2602 1575l11 68-5 29-10-34zM2588 1725l5-132-4 50-11-37zM2567 1673l12 63-10-119-11-67zM2549 1676l8-37-5 20-11-35z"/><path class="w13" d="M2922 1550l9-61 8 48-6-31-9 24-8-24zM2888 1539l8-23 9 82-6-62-8-115-9 178zM2853 1555l9-67-6 62-9-24zM2801 1527l9 108 9-75 8 11 9-21-6-39-9 40-9-30-9-35-8 45zM2784 1594l8-68-6 40-9-30zM2766 1563l8-30-6-25-8 110zM2748 1589l9 6-6-44-10-30zM2722 1639l8-91-6 16-10-43zM2677 1648l8-89 9 10-5 77-10-96-9 32zM2593 1593l9-18-4 63-9 5zM2557 1639l10 34-9-123-6 109z"/><path class="w10" d="M2905 1598l8-42-6-24-8 4zM2871 1533l8 63-6 23-8-99zM2641 1659l10 16 7-61-5 5-9 28-10-42z"/><path class="w8" d="M2879 1596l9-57-6 60-9 20z"/><path class="w14" d="M2862 1488l9 45-6-13-9 30zM2792 1526l9 1-6 4-9 35zM2774 1533l10 61-7-58-9-28zM2658 1614l8-84 11 118-7-66-10-32-7 69z"/><path class="w12" d="M2836 1550l9 30-6-7-9-62zM2757 1595l9-32-6 55-9-67zM2730 1548l10 122 8-81-7-68-8 35-9 8zM2694 1569l9-1-6 17-8 61zM2632 1666l9-7-7-54-11-54zM2538 1647l11 29-8-52-9 13z"/><path class="w9" d="M2613 1643l9-29-4 94-10-36zM2579 1736l9-11-10-119-9 11z"/><path class="w12" d="M2928 1530l8 44 9-83 8 66-6-40-8 20-8-48-9 61zM2885 1471l9 83-6-15-9 57zM2851 1583l8-63-6 35-8 25zM2799 1658l8-118 9 27-6 68-9-108-9-1zM2745 1564l9-20 9 85-6-34-9-6-8 81zM2682 1608l9-17-6-32-8 89zM2544 1651l9-9 9-6 10 5-5 32-10-34-8 37-11-29z"/><path class="w10" d="M2919 1588l9-58-6 20-9 6zM2636 1575l11 95-6-11-9 7z"/><path class="w11" d="M2911 1458l8 130-6-32-8 42zM2842 1547l9 36-6-3-9-30zM2825 1656l8-159-6 74-8-11zM2773 1712l7-163-6-16-8 30zM2709 1564l10 71-5 29-11-96zM2655 1637l9-23-6 0-7 61zM2618 1604l11 74 7-103-4 91-10-52-9 29zM2572 1641l7-91 0 186-12-63z"/><path class="w13" d="M2894 1554l9-35 8-61-6 140-9-82-8 23zM2833 1497l9 50-6 3-9 21zM2788 1463l11 195-7-132-8 68zM2728 1621l7-89 10 32-5 106-10-122-8 91zM2673 1603l9 5-5 40-11-118zM2601 1687l8-76 9-7-5 39-11-68-9 18z"/><path class="w14" d="M2859 1520l9 39 9-62 8-26-6 125-8-63-9-45-9 67zM2691 1591l9-19 9-8-6 4-9 1-9-10zM2664 1614l9-11-7-73-8 84z"/><path class="w9" d="M2816 1567l9 89-6-96-9 75zM2763 1629l10 83-7-149-9 32zM2719 1635l9-14-6 18-8 25zM2647 1670l8-33-4 38-10-16zM2579 1550l14 155 8-18-8-94-5 132-9 11z"/><path class="w15" d="M2780 1549l8-86-4 131-10-61z"/><path class="w13" d="M2951 1581l10-178-8 154-8-66zM2857 1577l8-98 9 118-6-38-9-39-8 63zM2813 1567l9-22-6 22-9-27zM2787 1626l9-29-8-134-8 86zM2752 1653l7-135-5 26-9 20zM2679 1623l8-90 11 119-7-61-9 17-9-5zM2559 1654l8-59 12 78-7-32-10-5-9 6z"/><path class="w12" d="M2934 1523l9-40 8 98-6-90-9 83-8-44zM2917 1495l8 138-6-45-8-130zM2900 1543l9 14-6-38-9 35zM2874 1597l9-24-6-76-9 62zM2848 1560l9 17-6 6-9-36zM2759 1518l11 136-7-25-9-85zM2733 1613l10 10 9 30-7-89-10-32-7 89zM2698 1652l8-43-6-37-9 19zM2634 1638l8-49 10 54-5 27-11-95-7 103zM2586 1596l12 96-5 13-14-155zM2551 1691l8-37-6-12-9 9z"/><path class="w10" d="M2925 1633l9-110-6 7-9 58zM2822 1545l9 54-6 57-9-89zM2805 1637l8-70-6-27-8 118z"/><path class="w14" d="M2909 1557l8-62-6-37-8 61zM2891 1515l9 28-6 11-9-83zM2839 1558l9 2-6-13-9-50zM2706 1609l9-50 9 1-5 75-10-71-9 8zM2579 1673l7-77-7-46-7 91z"/><path class="w15" d="M2883 1573l8-58-6-44-8 26z"/><path class="w11" d="M2831 1599l8-41-6-61-8 159zM2796 1597l9 40-6 21-11-195zM2724 1560l9 53-5 8-9 14zM2652 1643l9-33 10 47 8-34-6-20-9 11-9 23-8 33zM2617 1708l7-69 10-1-5 40-11-74-9 7z"/><path class="w9" d="M2778 1587l9 39-7-77-7 163zM2607 1677l10 31-8-97-8 76z"/><path class="w8" d="M2770 1654l8-67-5 125-10-83zM2598 1692l9-15-6 10-8 18z"/><path class="w12" d="M2949 1519l8 52 8 23-4-191-10 178-8-98zM2923 1528l9-2-7 107-8-138zM2889 1497l8 110 9-82 9 15-6 17-9-14-9-28-8 58zM2854 1468l9 155-6-46-9-17zM2837 1562l8-16-6 12-8 41zM2819 1589l9 33-6-77-9 22zM2793 1594l8-81 9 46-5 78-9-40-9 29zM2730 1611l9 2-6 0-9-53zM2713 1648l8-24-6-65-9 50zM2695 1685l8-87-5 54-11-119zM2667 1643l8-58-4 72-10-47zM2631 1654l8-33-5 17-10 1zM2584 1664l10 0-8-68-7 77z"/><path class="w13" d="M2940 1564l9-45-6-36-9 40zM2915 1540l8-12-6-33-8 62zM2880 1517l9-20-6 76-9 24zM2863 1623l9-91-7-53-8 98zM2757 1588l9-38 9 50-5 54-11-136-7 135zM2721 1624l9-13-6-51-9-1zM2675 1585l9-17 11 117-8-152-8 90-8 34zM2656 1577l11 66-6-33-9 33zM2639 1621l9-12-6-20-8 49zM2594 1664l7-76-3 104-12-96z"/><path class="w10" d="M2932 1526l8 38-6-41-9 110zM2775 1600l9 21 9-27-6 32-9-39-8 67zM2739 1613l10 23 8-48-5 65-9-30-10-10zM2612 1646l9 9 10-1-7-15-7 69-10-31z"/><path class="w14" d="M2872 1532l8-15-6 80-9-118zM2845 1546l9-78-6 92-9-2zM2648 1609l8-32-4 66-10-54z"/><path class="w11" d="M2828 1622l9-60-6 37-9-54zM2810 1559l9 30-6-22-8 70zM2703 1598l10 50-7-39-8 43zM2601 1588l11 58-5 31-9 15zM2555 1646l12 59 10 16 7-57-5 9-12-78-8 59-8 37z"/><path class="w11" d="M2964 1532l8-28-7 90-8-23zM2869 1617l9-50-6-35-9 91zM2816 1601l9 31 9-89-6 79-9-33-9-30zM2781 1603l9-21 9 28-6-16-9 27-9-21zM2754 1599l10 42-7-53-8 48zM2709 1621l10 24-6 3-10-50zM2610 1705l10 18 6-92-5 24-9-9-11-58z"/><path class="w12" d="M2955 1526l9 6-7 39-8-52zM2834 1543l9 29-6-10-9 60zM2745 1585l9 14-5 37-10-23zM2727 1618l9-39-6 32-9 13zM2699 1559l10 62-6-23-8 87zM2626 1631l10-5 9 9-6-14-8 33-10 1zM2589 1632l10 17 11 56-9-117-7 76-10 0zM2562 1664l8-44-3 85-12-59z"/><path class="w13" d="M2938 1510l9 0 8 16-6-7-9 45-8-38zM2895 1529l9-10 8-14-6 20-9 82-8-110zM2860 1533l9 84-6 6-9-155zM2764 1641l7-104-5 13-9 38zM2736 1579l9 6-6 28-9-2zM2691 1625l8-66-4 126-11-117zM2645 1635l9-3 10-1 8-38-5 50-11-66-8 32-9 12z"/><path class="w14" d="M2921 1493l8 42 9-25-6 16-9 2-8 12zM2843 1572l8-49-6 23-8 16zM2799 1610l8-100-6 3-8 81zM2771 1537l10 66-6-3-9-50z"/><path class="w15" d="M2912 1505l9-12-6 47-9-15zM2878 1567l8-99-6 49-8 15zM2807 1510l9 91-6-42-9-46zM2672 1593l8-51 11 83-7-57-9 17-8 58z"/><path class="w16" d="M2886 1468l9 61-6-32-9 20zM2851 1523l9 10-6-65-9 78z"/><path class="w10" d="M2719 1645l8-27-6 6-8 24zM2583 1737l6-105-5 32-7 57z"/><path class="w9" d="M2570 1620l13 117-6-16-10-16z"/><path class="w15" d="M2971 1450l8 35-7 19-8 28zM2910 1580l9-120-7 45-8 14zM2768 1550l9-42-6 29-7 104zM2595 1653l7-111-3 107-10-17z"/><path class="w14" d="M2961 1561l10-111-7 82-9-6zM2892 1561l9-1-6-31-9-61zM2849 1538l9 37-7-52-8 49zM2777 1508l10 121-6-26-10-66zM2732 1545l10 62 8-62 10 30-6 24-9-14-9-6-9 39zM2652 1662l6-126-4 96-9 3z"/><path class="w12" d="M2953 1566l8-5-6-35-8-16zM2935 1598l9-63-6-25-9 25zM2805 1606l9 22-7-118-8 100zM2698 1669l9-14 9-3-7-31-10-62-8 66zM2585 1630l10 23-6-21-6 105z"/><path class="w13" d="M2944 1535l9 31-6-56-9 0zM2927 1528l8 70-6-63-8-42zM2901 1560l9 20-6-61-9 10zM2884 1600l8-39-6-93-8 99zM2858 1575l8 17-6-59-9-10zM2840 1616l9-78-6 34-9-29zM2814 1628l8-81-6 54-9-91zM2787 1629l8-127 10 104-6 4-9-28-9 21zM2760 1575l8-25-4 91-10-42zM2724 1597l8-52-5 73-8 27zM2667 1529l13 180 8-69 10 29-7-44-11-83-8 51-8 38zM2634 1697l7-104 11 69-7-27-9-9-10 5zM2602 1542l12 118-4 45-11-56z"/><path class="w16" d="M2919 1460l8 68-6-35-9 12zM2658 1536l9-7-3 102-10 1z"/><path class="w10" d="M2875 1589l9 11-6-33-9 50zM2614 1660l9-24 11 61-8-66-6 92-10-18zM2569 1728l11 55 5-153-2 107-13-117-8 44z"/><path class="w11" d="M2866 1592l9-3-6 28-9-84zM2822 1547l9 72 9-3-6-73-9 89-9-31zM2716 1652l8-55-5 48-10-24z"/><path class="w14" d="M2976 1537l8 41-5-93-8-35zM2657 1636l9-5-8-95-6 126z"/><path class="w13" d="M2967 1572l9-35-5-87-10 111zM2942 1500l8 38 9-25-6 53-9-31-9 63zM2899 1564l8-25 9-6-6 47-9-20-9 1zM2846 1550l9 20 9-1-6 6-9-37-9 78zM2784 1629l9-13 9-18 9 7-6 1-10-104-8 127-10-121zM2748 1591l10 58 8-42-6-32-10-30-8 62zM2721 1644l8-115-5 68-8 55zM2592 1654l9 2 11 54-10-168-7 111-10-23z"/><path class="w12" d="M2959 1513l8 59-6-11-8 5zM2933 1574l9-74-7 98-8-70zM2811 1605l8-40 10 57 8-56 9-16-6 66-9 3-9-72-8 81-9-22zM2649 1703l8-67-5 26-11-69zM2630 1664l8-29-4 62-11-61zM2612 1710l10 24-8-74-12-118z"/><path class="w15" d="M2916 1533l9-40 8 81-6-46-8-68-9 120zM2766 1607l9-51 9 73-7-121-9 42-8 25zM2739 1578l9 13-6 16-10-62zM2666 1631l11 63-10-165-9 7z"/><path class="w10" d="M2890 1651l9-87-7-3-8 39zM2872 1632l9-13-6-30-9 3zM2703 1641l10 48 8-45-5 8-9 3-9 14zM2677 1694l9 21-6-6-13-180z"/><path class="w9" d="M2881 1619l9 32-6-51-9-11zM2686 1715l8-91-6 16-8 69zM2586 1781l6-127-7-24-5 153z"/><path class="w11" d="M2864 1569l8 63-6-40-8-17zM2694 1624l9 17-5 28-10-29zM2638 1635l11 68-8-110-7 104zM2622 1734l8-70-7-28-9 24z"/><path class="w16" d="M2729 1529l10 49-7-33-8 52z"/><path class="w7" d="M2573 1660l13 121-6 2-11-55z"/><path class="w11" d="M2983 1500l7 114-6-36-8-41zM2965 1606l9-49-7 15-8-59zM2870 1638l9-96-7 90-8-63zM2782 1690l8-74-6 13-9-73zM2754 1643l9-3-5 9-10-58zM2681 1645l8-67 12 112 8-40-6-9-9-17-8 91-9-21zM2643 1608l12 104-6-9-11-68zM2624 1597l12 102-6-35-8 70z"/><path class="w13" d="M2974 1557l9-57-7 37-9 35zM2913 1619l9-94-6 8-9 6zM2852 1599l9-42-6 13-9-20zM2835 1689l8-233-6 110-8 56zM2799 1585l9-33 9 32 9 25-7-44-8 40-9-7-9 18zM2772 1558l10 132-7-134-9 51zM2745 1610l9 33-6-52-9-13zM2727 1610l9 33-7-114-8 115zM2670 1548l11 97-4 49-11-63z"/><path class="w12" d="M2956 1567l9 39-6-93-9 25zM2905 1570l8 49-6-80-8 25zM2861 1557l9 81-6-69-9 1zM2790 1616l9-31-6 31-9 13zM2763 1640l9-82-6 49-8 42zM2709 1650l8-72 10 32-6 34-8 45-10-48zM2655 1712l6-139-4 63-8 67zM2636 1699l7-91-5 27-8 29z"/><path class="w14" d="M2931 1569l9-50 8 2 8 46-6-29-8-38-9 74-8-81zM2736 1643l9-33-6-32-10-49z"/><path class="w15" d="M2922 1525l9 44-6-76-9 40zM2843 1456l9 143-6-49-9 16z"/><path class="w10" d="M2896 1597l9-27-6-6-9 87zM2879 1542l8 97-6-20-9 13zM2826 1609l9 80-6-67-10-57zM2618 1731l6-134-2 137-10-24zM2600 1738l8-28-7-54-9-2z"/><path class="w8" d="M2887 1639l9-42-6 54-9-32z"/><path class="w16" d="M2661 1573l9-25-4 83-9 5z"/><path class="w9" d="M2608 1710l10 21-6-21-11-54zM2581 1740l7-76 12 74-8-84-6 127-13-121z"/><path class="w12" d="M2988 1557l9-3-7 60-7-114zM2963 1540l9-16 8 32-6 1-9 49-9-39zM2770 1662l8-51-6-53-9 82zM2705 1581l10 65-6 4-8 40zM2660 1669l9-11-8-85-6 139zM2633 1726l8-75 10 33-8-76-7 91-12-102z"/><path class="w13" d="M2980 1556l8 1-5-57-9 57zM2920 1570l8-38 9 82-6-45-9-44-9 94zM2841 1646l8-108-6-82-8 233zM2823 1585l9 6-6 18-9-25zM2796 1581l9 29-6-25-9 31zM2750 1563l10 58-6 22-9-33zM2715 1646l9-28-7-40-8 72zM2679 1699l8-70 10 42 8-90-4 109-12-112-8 67-11-97z"/><path class="w14" d="M2945 1601l10-98 8 37-7 27-8-46-8-2zM2805 1610l9-20 9-5-6-1-9-32-9 33zM2724 1618l9-15 9-20 8-20-5 47-9 33-9-33-10-32zM2669 1658l10 41-9-151-9 25z"/><path class="w11" d="M2937 1614l8-13-5-82-9 50zM2902 1572l9 47 9-49-7 49-8-49-9 27zM2876 1628l9-16 8-3-6 30-8-97-9 96zM2858 1595l9 74-6-112-9 42zM2778 1611l9 26 9-56-6 35-8 74-10-132zM2760 1621l10 41-7-22-9 3zM2651 1684l9-15-5 43-12-104zM2623 1677l10 49-9-129-6 134zM2584 1646l12 98 6-122-2 116-12-74-7 76z"/><path class="w10" d="M2893 1609l9-37-6 25-9 42zM2867 1669l9-41-6 10-9-81zM2832 1591l9 55-6 43-9-80zM2602 1622l12 81-6 7-8 28z"/><path class="w15" d="M2849 1538l9 57-6 4-9-143z"/><path class="w9" d="M2614 1703l9-26-5 54-10-21z"/><path class="w11" d="M2986 1542l8 102 10-132-7 42-9 3-8-1zM2873 1573l9-18 9 48-6 9-9 16-9 41zM2775 1632l9 2 10 31-7-28-9-26-8 51zM2675 1652l10 33 8-38-6-18-8 70-10-41zM2619 1669l10 26 8-76-4 107-10-49-9 26z"/><path class="w13" d="M2977 1577l9-35-6 14-8-32zM2952 1483l8 135 9-97-6 19-8-37-10 98zM2935 1535l8 22-6 57-9-82zM2909 1521l8 66-6 32-9-47zM2802 1603l9 12 9-14 9-20 9 14-6-4-9-6-9 5-9 20-9-29zM2720 1574l10 93 9-58-6-6-9 15-9 28zM2637 1619l9-19-5 51-8 75z"/><path class="w14" d="M2969 1521l8 56-5-53-9 16zM2900 1540l9-19-7 51-9 37zM2847 1573l9-11-7-24-8 108zM2702 1638l9-30-6-27-8 90zM2646 1600l9 3-4 81-10-33z"/><path class="w12" d="M2943 1557l9-74-7 118-8 13zM2917 1587l9-73-6 56-9 49zM2891 1603l9-63-7 69-8 3zM2865 1562l8 11-6 96-9-74zM2838 1595l9-22-6 73-9-55zM2794 1665l8-62-6-22-9 56zM2757 1627l10 64-7-70-10-58zM2693 1647l9-9-5 33-10-42zM2655 1603l11 66 9-17-6 6-9 11-9 15zM2591 1699l8-54-3 99-12-98z"/><path class="w15" d="M2926 1514l9 21-7-3-8 38zM2856 1562l9 0-7 33-9-57zM2739 1609l9-8 9 26-7-64-8 20-9 20zM2711 1608l9-34-5 72-10-65z"/><path class="w10" d="M2767 1691l8-59-5 30-10-41zM2599 1645l14 151 6-127-5 34-12-81-6 122z"/><path class="w12" d="M2976 1527l7 97 10-128 8 88 9-80-6 8-10 132-8-102-9 35-8-56zM2888 1628l9-51-6 26-9-48zM2754 1619l10 59-7-51-9-26zM2736 1649l9-19-6-21-9 58zM2699 1605l11 108-8-75-9 9z"/><path class="w14" d="M2958 1545l9-31 9 13-7-6-9 97-8-135zM2906 1595l9-16 9-58 8 102 9-59 9-23-7 16-8-22-9-21-9 73-8-66-9 19zM2862 1618l9-33 9-2-7-10-8-11-9 0zM2827 1671l8-170-6 80-9 20zM2809 1637l8-102-6 80-9-12zM2745 1630l9-11-6-18-9 8zM2661 1611l11 73-6-15-11-66z"/><path class="w15" d="M2950 1541l8 4-6-62-9 74zM2835 1501l9 77-6 17-9-14zM2653 1676l8-65-6-8-9-3z"/><path class="w13" d="M2897 1577l9 18-6-55-9 63zM2880 1583l8 45-6-73-9 18zM2844 1578l9 47 9-7-6-56-9 11-9 22zM2817 1535l10 136-7-70-9 14zM2782 1646l8-110 9 86-5 43-10-31-9-2zM2719 1705l8-43 9-13-6 18-10-93-9 34zM2672 1684l8-83 10 42 9-38-6 42-8 38-10-33-9 17zM2645 1721l8-45-7-76-9 19z"/><path class="w11" d="M2799 1622l10 15-7-34-8 62zM2764 1678l8-60 10 28-7-14-8 59-10-64zM2710 1713l9-8-8-97-9 30z"/><path class="w10" d="M2637 1782l8-61-8-102-8 76zM2599 1748l10 40-10-143-8 54z"/><path class="w9" d="M2627 1742l10 40-8-87-10-26z"/><path class="w8" d="M2609 1788l8-66 10 20-8-73-6 127-14-151z"/><path class="w11" d="M3007 1602l8 5-5-103-9 80zM2981 1597l9-8-7 35-7-97zM2886 1680l9-100-7 48-8-45zM2859 1531l9 183-6-96-9 7zM2797 1657l9 88-7-123-9-86zM2761 1703l8-104-5 79-10-59zM2734 1694l8-52-6 7-9 13z"/><path class="w13" d="M2999 1538l8 64-6-18-8-88zM2973 1609l8-12-5-70-9-13zM2947 1590l8 8-5-57-9 23zM2903 1598l9-33-6 30-9-18zM2779 1639l8-65-5 72-10-28zM2742 1642l9-8-6-4-9 19zM2669 1702l8-77-5 59-11-73z"/><path class="w12" d="M2990 1589l9-51-6-42-10 128zM2912 1565l9 84 8-26 9-37 9 4-6-26-9 59-8-102-9 58-9 16zM2895 1580l8 18-6-21-9 51zM2769 1599l10 40-7-21-8 60zM2751 1634l10 69-7-84-9 11zM2705 1642l10 54-5 17-11-108zM2659 1690l10 12-8-91-8 65z"/><path class="w14" d="M2955 1598l10-73 8 84-6-95-9 31-8-4zM2850 1586l9-55-6 94-9-47zM2787 1574l10 83-7-121-8 110zM2677 1625l10 41 9-31 9 7-6-37-9 38-10-42-8 83z"/><path class="w10" d="M2877 1663l9 17-6-97-9 2zM2806 1745l8-155-5 47-10-15zM2651 1708l8-18-6-14-8 45z"/><path class="w9" d="M2868 1714l9-51-6-78-9 33zM2725 1730l9-36-7-32-8 43zM2604 1717l8-34 10 32 10 15-5 12-10-20-8 66-10-40z"/><path class="w16" d="M2823 1576l9-82 9 97 9-5-6-8-9-77-8 170-10-136z"/><path class="w15" d="M2814 1590l9-14-6-41-8 102z"/><path class="w8" d="M2715 1696l10 34-6-25-9 8zM2632 1730l10-7 9-15-6 13-8 61-10-40z"/><path class="w9" d="M3012 1654l10-88-7 41-8-5zM2883 1662l9-82-6 100-9-17zM2812 1630l9 67-7-107-8 155z"/><path class="w10" d="M3005 1590l7 64-5-52-8-64zM2927 1592l9 29-7 2-8 26zM2627 1654l12 120 7-124-4 73-10 7-10-15z"/><path class="w12" d="M2988 1545l8 45 9 0-6-52-9 51-9 8zM2821 1697l9-63-7-58-9 14zM2711 1655l9-21 9-65 10 86-5 39-9 36-10-34-10-54zM2646 1650l9 12-4 46-9 15zM2619 1733l8-79-5 61-10-32z"/><path class="w13" d="M2945 1565l9-34 8 38 9 10 9-53 8 19-7 52-8 12-8-84-10 73-8-8-9-4zM2919 1546l8 46-6 57-9-84zM2901 1628l9-98-7 68-8-18zM2865 1556l9 63-6 95-9-183zM2775 1608l10 58-6-27-10-40zM2757 1624l9-47-5 126-10-69zM2739 1655l8-68-5 55-8 52zM2693 1660l10 22 8-27-6-13-9-7-9 31z"/><path class="w11" d="M2936 1621l9-56-7 21-9 37zM2892 1580l9 48-6-48-9 100zM2802 1569l10 61-6 115-9-88zM2655 1662l11 63 8-69-5 46-10-12-8 18zM2609 1690l10 43-7-50-8 34z"/><path class="w15" d="M2910 1530l9 16-7 19-9 33zM2857 1624l8-68-6-25-9 55zM2830 1634l9-33-7-107-9 82zM2793 1575l9-6-5 88-10-83zM2674 1656l8-86 11 90-6 6-10-41-8 77z"/><path class="w8" d="M2874 1619l9 43-6 1-9 51z"/><path class="w14" d="M2848 1577l9 47-7-38-9 5zM2785 1666l8-91-6-1-8 65zM2766 1577l9 31-6-9-8 104zM2747 1587l10 37-6 10-9 8z"/><path class="w16" d="M2839 1601l9-24-7 14-9-97z"/><path class="w12" d="M3021 1528l8 13-7 25-10 88zM3003 1549l8 36-6 5-9 0zM2968 1638l9-66-6 7-9-10zM2934 1559l8 47-6 15-9-29zM2889 1603l9-21 9 53 9-23-6-82-9 98-9-48-9 82zM2845 1647l9 53 9-84-6 8-9-47-9 24zM2818 1619l9-42-6 120-9-67zM2782 1630l9 31-6 5-10-58zM2709 1693l9-26 9 17-7-50-9 21-8 27z"/><path class="w11" d="M3011 1585l10-57-9 126-7-64zM2880 1634l9-31-6 59-9-43zM2700 1729l9-36-6-11-10-22zM2661 1640l12 112-7-27-11-63zM2623 1640l13 147-9-133-8 79z"/><path class="w13" d="M2994 1562l9-13-7 41-8-45zM2942 1606l9-92-6 51-9 56zM2916 1612l8 33 10-86-7 33-8-46-9-16zM2872 1579l8 55-6-15-9-63zM2809 1674l9-55-6 11-10-61zM2615 1703l8-63-4 93-10-43z"/><path class="w14" d="M2977 1572l9-3 8-7-6-17-8-19-9 53zM2960 1530l8 108-6-69-8-38zM2863 1616l9-37-7-23-8 68zM2791 1661l8-117-6 31-8 91zM2745 1613l9 47 9-41-6 5-10-37-8 68zM2681 1693l8-35 11 71-7-69-11-90-8 86zM2653 1703l8-63-6 22-9-12z"/><path class="w16" d="M2951 1514l9 16-6 1-9 34zM2799 1544l10 130-7-105-9 6z"/><path class="w10" d="M2827 1577l9 148 9-78-6-46-9 33-9 63zM2673 1752l8-59-7-37-8 69zM2644 1748l9-45-7-53-7 124z"/><path class="w15" d="M2763 1619l9 1 10 10-7-22-9-31-9 47zM2727 1684l8-62 10-9-6 42-10-86-9 65z"/><path class="w9" d="M2636 1787l8-39-5 26-12-120z"/><path class="w14" d="M3027 1552l8 23-6-34-8-13zM2931 1566l9-27 8 58-6 9-8-47-10 86zM2787 1547l10 115-6-1-9-31zM2695 1636l9-51-4 144-11-71zM2620 1659l10 24-7-43-8 63z"/><path class="w13" d="M3017 1608l10-56-6-24-10 57zM3001 1566l8 50-6-67-9 13zM2966 1538l8 91-6 9-8-108zM2948 1597l9 8-6-91-9 92zM2896 1599l8 39 10-91-7 88-9-53-9 21zM2869 1622l9 5-6-48-9 37zM2770 1676l9-3-7-53-9-1zM2732 1590l11 104-8-72-8 62z"/><path class="w11" d="M3009 1616l8-8-6-23-8-36zM2974 1629l9-27-6-30-9 66zM2914 1547l8 129 9-110-7 79-8-33-9 23zM2851 1633l9-42-6 109-9-53zM2806 1703l10 7-7-36-10-130zM2752 1712l9-11-7-41-9-47zM2669 1740l8-72-4 84-12-112z"/><path class="w12" d="M2983 1602l8 24 10-60-7-4-8 7-9 3zM2878 1627l9 5 9-33-7 4-9 31-8-55zM2860 1591l9 31-6-6-9 84zM2833 1558l9 128-6 39-9-148zM2797 1662l9 41-7-159-8 117zM2761 1701l9-25-7-57-9 41zM2743 1694l9 18-7-99-10 9zM2725 1749l7-159-5 94-9-17zM2704 1585l11 103-6 5-9 36zM2688 1767l7-131-6 22-8 35z"/><path class="w16" d="M2957 1605l9-67-6-8-9-16z"/><path class="w9" d="M2842 1686l9-53-6 14-9 78zM2649 1682l12 117-8-96-9 45z"/><path class="w15" d="M2824 1650l9-92-6 19-9 42zM2779 1673l8-126-5 83-10-10z"/><path class="w10" d="M2816 1710l8-60-6-31-9 55zM2715 1688l10 61-7-82-9 26zM2677 1668l11 99-7-74-8 59zM2661 1799l8-59-8-100-8 63zM2630 1683l12 99-6 5-13-147z"/><path class="w8" d="M2642 1782l7-100-5 66-8 39z"/><path class="w13" d="M3016 1551l9-20 8 38 8-3-6 9-8-23-10 56-8 8zM2999 1524l8 81-6-39-10 60zM2955 1558l8 53-6-6-9-8zM2920 1568l8 39-6 69-8-129zM2893 1565l9 70-6-36-9 33zM2803 1593l9-12-6 122-9-41zM2692 1643l9-5-6-2-7 131zM2626 1664l11 89-7-70-10-24z"/><path class="w12" d="M3007 1605l9-54-7 65-8-50zM2989 1633l10-109-8 102-8-24zM2963 1611l8 51-5-124-9 67zM2902 1635l9-11-7 14-8-39zM2884 1653l9-88-6 67-9-5zM2857 1632l9 56 9-44-6-22-9-31-9 42zM2839 1616l10 89-7-19-9-128zM2776 1675l9-42-6 40-9 3zM2731 1729l8-94-7-45-7 159zM2675 1723l8-58 9-22-4 124-11-99-8 72zM2646 1710l8-51 10 20-3 120-12-117-7 100z"/><path class="w10" d="M2981 1621l8 12-6-31-9 27zM2849 1705l8-73-6 1-9 53zM2758 1687l9-8-6 22-9 11zM2637 1753l9-43-4 72-12-99z"/><path class="w11" d="M2971 1662l10-41-7 8-8-91zM2928 1607l9 55-6-96-9 110zM2875 1644l9 9-6-26-9-5zM2812 1581l9 72 9-29-6 26-8 60-10-7zM2767 1679l9-4-6 1-9 25zM2748 1613l10 74-6 25-9-18zM2719 1586l12 143-6 20-10-61z"/><path class="w15" d="M2946 1544l9 14-7 39-8-58zM2794 1640l9-47-6 69-10-115zM2739 1635l9-22-5 81-11-104zM2701 1638l10 43 8-95-4 102-11-103-9 51z"/><path class="w14" d="M2937 1662l9-118-6-5-9 27zM2911 1624l9-56-6-21-10 91zM2830 1624l9-8-6-58-9 92zM2785 1633l9 7-7-93-8 126z"/><path class="w9" d="M2664 1679l11 44-6 17-8 59z"/><path class="w12" d="M3039 1602l9-35-7-1-8 3zM2970 1584l9-12-8 90-8-51zM2944 1576l8 72-6-104-9 118zM2908 1568l9 95-6-39-9 11zM2837 1669l9 17 8-133-5 152-10-89-9 8zM2782 1697l9-20-6-44-9 42zM2671 1703l9-25 10 68 10-15-8-88-9 22-8 58-11-44zM2633 1726l10-11-6 38-11-89z"/><path class="w13" d="M3031 1557l8 45-6-33-8-38zM2996 1606l9-25-6-57-10 109zM2935 1577l9-1-7 86-9-55zM2890 1607l9 19-6-61-9 88zM2854 1553l10 56 9-23-7 102-9-56-8 73zM2818 1611l10 79-7-37-9-72zM2791 1677l9-21-6-16-9-7zM2764 1661l8-83 10 119-6-22-9 4-9 8zM2727 1719l8-105 11 83-7-62-8 94-12-143zM2700 1731l8-48-7-45-9 5z"/><path class="w15" d="M3023 1530l8 27-6-26-9 20zM2952 1648l10-136 8 72-7 27-8-53-9-14zM2926 1543l9 34-7 30-8-39zM2800 1656l9-70-6 7-9 47z"/><path class="w14" d="M3005 1581l8-6 10-45-7 21-9 54-8-81zM2917 1663l9-120-6 25-9 56zM2899 1626l9-58-6 67-9-70zM2746 1697l8-57 10 21-6 26-10-74-9 22zM2708 1683l9-38 10 74-8-133-8 95-10-43zM2652 1703l8-50 11 50-7-24-10-20-8 51z"/><path class="w11" d="M2979 1572l8 19 9 15-7 27-8-12-10 41zM2881 1709l9-102-6 46-9-9zM2828 1690l9-21-7-45-9 29zM2643 1715l9-12-6 7-9 43z"/><path class="w10" d="M2873 1586l8 123-6-65-9 44z"/><path class="w16" d="M2809 1586l9 25-6-30-9 12z"/><path class="w15" d="M3038 1551l10-91 6 111-6-4-9 35-8-45zM2897 1561l9 25-7 40-9-19zM2861 1641l9-11-6-21-10-56zM2760 1592l9 37-5 32-10-21z"/><path class="w14" d="M3020 1575l8 28 10-52-7 6-8-27-10 45zM2977 1571l8 44-6-43-9 12zM2941 1592l9 57-6-73-9 1zM2923 1616l10-49-7-24-9 120zM2906 1586l8 66-6-84-9 58zM2870 1630l9-24 9-59 9 14-7 46-9 102-8-123-9 23zM2807 1658l8-45-6-27-9 70zM2769 1629l10 71-7-122-8 83zM2675 1641l11 32-6 5-9 25z"/><path class="w12" d="M3010 1647l10-72-7 0-8 6zM2914 1652l9-36-6 47-9-95zM2843 1595l9 34-6 57-9-17zM2779 1700l9-15-6 12-10-119zM2734 1753l8-99 11 120 7-182-6 48-8 57-11-83-8 105zM2704 1665l11 42-7-24-8 48zM2686 1673l9 9-5 64-10-68zM2649 1729l9-25 11 57-9-108-8 50-9 12z"/><path class="w11" d="M2994 1602l8 40 8 5-5-66-9 25-9-15zM2834 1700l9-105-6 74-9 21zM2798 1717l9-59-7-2-9 21zM2715 1707l10 62-8-124-9 38zM2695 1682l9-17-4 66-10 15zM2639 1728l10 1-6-14-10 11z"/><path class="w13" d="M2985 1615l9-13-7-11-8-19zM2950 1649l9-123-7 122-8-72zM2852 1629l9 12-7-88-8 133zM2824 1595l10 105-6-10-10-79zM2669 1761l6-120-4 62-11-50z"/><path class="w17" d="M2959 1526l10-23 8 68-7 13-8-72-10 136z"/><path class="w16" d="M2933 1567l8 25-6-15-9-34zM2815 1613l9-18-6 16-9-25z"/><path class="w10" d="M2788 1685l10 32-7-40-9 20zM2725 1769l9-16-7-34-10-74z"/><path class="w14" d="M3051 1648l9-56-6-21-6-111zM2983 1566l9 19-7 30-8-44zM2921 1585l9-13 9 61 9-31-7-10-8-25-10 49-9 36zM2903 1631l9 23-6-68-9-25zM2867 1580l9 78 9-83-6 31-9 24-9 11zM2840 1634l9-15-6-24-9 105zM2822 1603l9 111-7-119-9 18z"/><path class="w15" d="M3044 1558l7 90-3-188-10 91zM2965 1639l8 9 10-82-6 5-8-68-10 23zM2858 1578l9 2-6 61-9-12zM2813 1646l9-43-7 10-8 45zM2767 1697l9-70-7 2-9-37zM2700 1632l11 44-7-11-9 17zM2683 1718l8-83-5 38-11-32z"/><path class="w12" d="M3027 1554l6 116 11-112-6-7-10 52-8-28zM3000 1585l9 8-7 49-8-40zM2948 1602l8 30-6 17-9-57zM2831 1714l9-80-6 66-10-105zM2748 1665l9-12 10 44-7-105-7 182-11-120zM2674 1731l9-13-8-77-6 120zM2654 1686l10 42-6-24-9 25z"/><path class="w13" d="M3017 1593l10-39-7 21-10 72zM2992 1585l8 0-6 17-9 13zM2956 1632l9 7-6-113-9 123zM2912 1654l9-69-7 67-8-66zM2776 1627l9 58-6 15-10-71zM2739 1657l9 8-6-11-8 99zM2711 1676l10 40-6-9-11-42z"/><path class="w11" d="M3009 1593l8 0-7 54-8-5zM2804 1712l9-66-6 12-9 59zM2785 1685l10-11-7 11-9 15zM2721 1716l8-85 10 26-5 96-9 16-10-62zM2664 1728l10 3-5 30-11-57zM2646 1779l8-93-5 43-10-1z"/><path class="w16" d="M2885 1575l9 32 9 24-6-70-9-14-9 59zM2849 1619l9-41-6 51-9-34zM2691 1635l9-3-5 50-9-9z"/><path class="w10" d="M2795 1674l9 38-6 5-10-32z"/><path class="w11" d="M3057 1679l12-166-9 79-9 56zM3006 1622l8 53 10-69-7-13-8 0-9-8zM2953 1681l9-38 9-15-6 11-9-7-8-30zM2837 1648l9 51-6-65-9 80zM2783 1732l9 27 9-91 9 45-6-1-9-38-10 11-9-58zM2670 1703l11 76 8-66-6 5-9 13-10-3z"/><path class="w9" d="M3049 1643l8 36-6-31-7-90z"/><path class="w10" d="M3040 1636l9 7-5-85-11 112z"/><path class="w12" d="M3034 1538l6 98-7 34-6-116zM2971 1628l10-39-8 59-8-9zM2945 1630l8 51-5-79-9 31zM2910 1587l8 100 9-83-6-19-9 69-9-23zM2810 1713l9-72-6 5-9 66zM2754 1671l11 106 8-129-6 49-10-44-9 12zM2650 1689l11 66 9-52-6 25-10-42-8 93z"/><path class="w14" d="M3024 1606l10-68-7 16-10 39zM2989 1605l9-31 8 48-6-37-8 0-9-19zM2936 1586l9 44-6 3-9-61zM2828 1571l9 77-6 66-9-111zM2736 1701l9-15 9-15-6-6-9-8-10-26zM2716 1598l11 103-6 15-10-40zM2699 1737l9-33-8-72-9 3z"/><path class="w13" d="M2981 1589l8 16-6-39-10 82zM2900 1681l10-94-7 44-9-24zM2846 1699l9-56-6-24-9 15zM2773 1648l10 84-7-105-9 70zM2727 1701l9 0-7-70-8 85zM2689 1713l10 24-8-102-8 83z"/><path class="w16" d="M2927 1604l9-18-6-14-9 13zM2883 1556l9 19-7 0-9 83zM2855 1643l9-84-6 19-9 41zM2819 1641l9-70-6 32-9 43zM2708 1704l8-106-5 78-11-44z"/><path class="w15" d="M2892 1575l8 106-6-74-9-32zM2874 1633l9-77-7 102-9-78z"/><path class="w17" d="M2864 1559l10 74-7-53-9-2z"/><path class="w12" d="M3066 1559l7 53-4-99-12 166zM3031 1589l6 102-3-153-10 68zM2978 1594l8 80-5-85-10 39zM2942 1660l9-11-6-19-9-44zM2925 1646l9-14-7-28-9 83zM2797 1627l10 52 9 12-6 22-9-45-9 91zM2770 1698l9-21-6-29-8 129z"/><path class="w11" d="M3037 1691l11-88 8-13 10-31-9 120-8-36-9-7-6-98zM3004 1645l8 35-6-58-8-48zM2960 1677l9-81-7 47-9 38zM2916 1692l9-46-7 41-8-100zM2761 1707l9-9-5 79-11-106zM2686 1726l10 8 9 3-6 0-10-24-8 66zM2658 1768l10 2-7-15-11-66z"/><path class="w10" d="M3020 1681l11-92-7 17-10 69zM2951 1649l9 28-7 4-8-51zM2668 1770l9 7 9-51-5 53-11-76-9 52z"/><path class="w8" d="M3012 1680l8 1-6-6-8-53z"/><path class="w14" d="M2996 1549l8 96-6-71-9 31zM2898 1653l9-71-7 99-8-106zM2880 1655l9 7-6-106-9 77zM2853 1585l9 54-7 4-9 56zM2779 1677l9-80-5 135-10-84z"/><path class="w13" d="M2986 1674l10-125-7 56-8-16zM2969 1596l9-2-7 34-9 15zM2934 1632l8 28-6-74-9 18zM2907 1582l9 110-6-105-10 94zM2844 1674l9-89-7 114-9-51zM2816 1691l9-84-6 34-9 72zM2788 1597l9 30-5 132-9-27zM2751 1679l10 28-7-36-9 15zM2705 1737l8-116-5 83-9 33z"/><path class="w15" d="M2889 1662l9-9-6-78-9-19zM2862 1639l9 8 9 8-6-22-10-74-9 84zM2723 1696l9-30 9-68 10 81-6 7-9 15-9 0-11-103z"/><path class="w16" d="M2834 1551l10 123-7-26-9-77zM2713 1621l10 75-7-98-8 106z"/><path class="w18" d="M2825 1607l9-56-6 20-9 70z"/><path class="w13" d="M3062 1615l9-21 10-24-8 42-7-53-10 31zM3029 1548l8 61-6-20-11 92zM2993 1609l9 1 8 46-6-11-8-96-10 125zM2975 1631l9 12-6-49-9 2zM2949 1602l9 8-7 39-9 11zM2904 1676l9-38 9-15 9-40 9 73-6-24-9 14-9 46-9-110-9 71zM2859 1673l9 43-6-77-9-54zM2766 1612l11 136-7-50-9 9zM2711 1733l10 18 9-23 9-41-7-21-9 30-10-75-8 116z"/><path class="w14" d="M3055 1538l7 77-6-25-8 13zM2877 1654l9-72 9 45-6 35-9-7-9-8zM2850 1662l9 11-6-88-9 89zM2823 1687l9-43-7-37-9 84zM2786 1699l9-23 10 98-8-147-9-30-9 80zM2758 1688l8-76-5 95-10-28z"/><path class="w11" d="M3044 1685l11-147-7 65-11 88zM3019 1609l10-61-9 133-8-1zM2805 1774l9-31 9-56-7 4-9-12-10-52zM2777 1748l9-49-7-22-9 21zM2692 1727l11 56-7-49-10-8z"/><path class="w10" d="M3037 1609l7 76-7 6-6-102zM3010 1656l9-47-7 71-8-35zM2703 1783l8-50-6 4-9-3z"/><path class="w12" d="M2984 1643l9-34-7 65-8-80zM2958 1610l9 30 8-9-6-35-9 81-9-28zM2940 1656l9-54-7 58-8-28zM2895 1627l9 49-6-23-9 9zM2868 1716l9-62-6-7-9-8zM2663 1709l9-2 10-13 10 33-6-1-9 51-9-7-10-2z"/><path class="w15" d="M2841 1627l9 35-6 12-10-123z"/><path class="w17" d="M2832 1644l9-17-7-76-9 56z"/><path class="w16" d="M2739 1687l9-43 10 44-7-9-10-81-9 68z"/><path class="w12" d="M3070 1579l7 57 9-16-5-50-10 24-9 21zM3018 1596l7 53-6-40-9 47zM2989 1733l11-160-7 36-9 34zM2911 1677l9-32-7-7-9 38zM2892 1742l9-23-6-92-9-45zM2856 1758l9-111 9-3-6 72-9-43-9-11zM2801 1666l9-9-5 117-10-98zM2783 1693l9-25-6 31-9 49zM2727 1733l9-44-6 39-9 23zM2689 1733l10 40-7-46-10-33z"/><path class="w14" d="M3061 1602l9-23-8 36-7-77zM3034 1630l10-56-7 35-8-61zM2947 1601l9 3-7-2-9 54zM2928 1692l10-97-7-12-9 40zM2829 1684l9-87-6 47-9 43zM2792 1668l9-2-6 10-9 23zM2773 1682l10 11-6 55-11-136zM2754 1680l10 20-6-12-10-44zM2736 1689l9-20-6 18-9 41zM2679 1715l10 18-7-39-10 13z"/><path class="w11" d="M3044 1574l7 99 10-71-6-64-11 147-7-76zM2973 1686l9-47-7-8-8 9zM2901 1719l10-42-7-1-9-49zM2820 1682l9 2-6 3-9 56z"/><path class="w13" d="M3025 1649l9-19-5-82-10 61zM3009 1577l9 19-8 60-8-46zM2965 1603l8 83-6-46-9-30zM2920 1645l8 47-6-69-9 15zM2874 1644l10-18 8 116-6-160-9 72-9 62zM2847 1603l9 155-6-96-9-35zM2670 1777l9-62-7-8-9 2z"/><path class="w15" d="M3000 1573l9 4-7 33-9-1zM2956 1604l9-1-7 7-9-8zM2938 1595l9 6-7 55-9-73zM2764 1700l9-18-7-70-8 76zM2745 1669l9 11-6-36-9 43z"/><path class="w10" d="M2982 1639l7 94-5-90-9-12zM2810 1657l10 25-6 61-9 31zM2718 1785l9-52-6 18-10-18zM2699 1773l10 5-6 5-11-56z"/><path class="w17" d="M2838 1597l9 6-6 24-9 17z"/><path class="w9" d="M2709 1778l9 7-7-52-8 50z"/><path class="w11" d="M3085 1598l7 58-6-36-9 16zM2890 1698l9-40 9-35 9 101 9-80-6 1-9 32-10 42-9 23-8-116zM2713 1706l10 17-5 62-9-7zM2694 1701l12 94-7-22-10-40zM2675 1721l12 75-8-81-9 62z"/><path class="w14" d="M3077 1546l8 52-8 38-7-57zM3042 1569l8 42-6-37-10 56zM3025 1555l8 45-8 49-7-53zM2807 1668l10 20 9-20-6 14-10-25-9 9zM2770 1679l9-9 10-6-6 29-10-11-9 18z"/><path class="w15" d="M3050 1611l11-128 7 81 9-18-7 33-9 23-10 71-7-99zM3015 1607l10-52-7 41-9-19zM2926 1644l10-123 8 116 9 13 9-45 9 36-6-38-9 1-9-3-9-6-10 97-8-47zM2835 1710l9-82-6-31-9 87zM2789 1664l9-16 9 20-6-2-9 2-9 25z"/><path class="w13" d="M3033 1600l9-31-8 61-9 19zM2971 1641l9-12-7 57-8-83zM2872 1663l9 27 9 8-6-72-10 18-9 3zM2853 1662l10-4-7 100-9-155zM2826 1668l9 42-6-26-9-2zM2732 1688l11 69 9-34-7-54-9 20-9 44z"/><path class="w16" d="M3007 1578l8 29-6-30-9-4z"/><path class="w12" d="M2997 1672l10-94-7-5-11 160zM2980 1629l9-8-7 18-9 47zM2863 1658l9 5-7-16-9 111zM2752 1723l10 75 8-119-6 21-10-20-9-11zM2723 1723l9-35-5 45-9 52zM2687 1796l7-95-5 32-10-18z"/><path class="w10" d="M2989 1621l8 51-8 61-7-94zM2706 1795l7-89-4 72-10-5z"/><path class="w17" d="M2844 1628l9 34-6-59-9-6z"/><path class="w13" d="M3092 1557l8 31-8 68-7-58zM3072 1683l10-72-5-65-9 18zM3012 1650l9 5-6-48-8-29zM2986 1670l9-32-6-17-9 8zM2951 1619l8 52-6-21-9-13zM2914 1674l10-47-7 97-9-101zM2887 1640l9-26-6 84-9-8zM2869 1727l9-72-6 8-9-5zM2786 1739l10 5 9-40 9 22 9-38 9 4 9-29 10 62 9-1-7-62-9-34-9 82-9-42-9 20-10-20-9-20-9 16-10 6zM2720 1734l10-8 9 23-7-61-9 35-10-17z"/><path class="w15" d="M3082 1611l10-54-7 41-8-52zM3066 1580l6 103-4-119-7-81zM3030 1626l10-38 8 21-6-40-9 31-8-45zM2932 1662l9 29 10-72-7 18-8-116-10 123z"/><path class="w16" d="M3056 1629l10-49-5-97-11 128z"/><path class="w14" d="M3048 1609l8 20-6-18-8-42zM3021 1655l9-29-5-71-10 52zM2896 1614l9 31 9 29-6-51-9 35-9 40zM2878 1655l9-15-6 50-9-27z"/><path class="w12" d="M2995 1638l8 33 9-21-5-72-10 94-8-51zM2959 1671l9 32 9-43 9 10-6-41-9 12-9-36-9 45zM2924 1627l8 35-6-18-9 80zM2860 1724l9 3-6-69-10 4zM2777 1752l9-13-7-69-9 9z"/><path class="w10" d="M2768 1751l9 1-7-73-8 119zM2682 1762l11 59 9-43-8-77-7 95-12-75z"/><path class="w9" d="M2749 1801l10-8 9-42-6 47-10-75-9 34z"/><path class="w11" d="M2739 1749l10 52-6-44-11-69zM2702 1778l9-6 9-38-7-28-7 89-12-94z"/><path class="w15" d="M3098 1586l9-16-7 18-8-31zM3038 1581l8 0-6 7-10 38zM2829 1640l9 6-6 46-9-4z"/><path class="w13" d="M3087 1682l11-96-6-29-10 54zM3056 1556l6 106-6-33-8-20zM3028 1629l10-48-8 45-9 29zM2966 1614l9-19-7 108-9-32zM2948 1655l9 11-6-47-10 72zM2930 1677l9-1-7-14-8-35zM2848 1704l9-29-6 50-10-62zM2811 1667l9 23-6 36-9-22zM2725 1678l11 69-6-21-10 8z"/><path class="w11" d="M3081 1596l6 86-5-71-10 72zM3018 1684l10-55-7 26-9-5zM2982 1760l11-167-7 77-9-10zM2866 1670l9 15-6 42-9-3zM2792 1690l10 74-6-20-10-5zM2765 1765l8-94-5 80-9 42z"/><path class="w12" d="M3062 1662l9-3 10-63-9 87-6-103-10 49zM3011 1560l7 124-6-34-9 21zM2939 1676l9-21-7 36-9-29zM2875 1685l10 20-7-50-9 72zM2857 1675l9-5-6 54-9 1zM2802 1764l9-97-6 37-9 40zM2773 1671l10 26 9-7-6 49-9 13-9-1zM2736 1747l10-3-7 5-9-23zM2717 1763l8-85-5 56-9 38z"/><path class="w16" d="M3046 1581l10-25-8 53-8-21zM2903 1572l9 101-7-28-9-31z"/><path class="w14" d="M2993 1593l9 22 9-55-8 111-8-33-9 32zM2957 1666l9-52-7 57-8-52zM2912 1673l9-78 9 82-6-50-10 47-9-29zM2885 1705l9-70-7 5-9 15zM2838 1646l10 58-7-41-9 29zM2820 1690l9-50-6 48-9 38z"/><path class="w10" d="M2975 1595l7 165-5-100-9 43zM2746 1744l9 32-6 25-10-52zM2708 1802l9-39-6 9-9 6z"/><path class="w17" d="M2894 1635l9-63-7 42-9 26z"/><path class="w8" d="M2755 1776l10-11-6 28-10 8zM2699 1809l9-7-6-24-9 43z"/><path class="w9" d="M2689 1770l10 39-6 12-11-59z"/><path class="w16" d="M3105 1581l11-80-9 69-9 16zM3009 1582l8 50-6-72-9 55zM2808 1648l8-71 10 98-6 15-9-23-9 97z"/><path class="w12" d="M3095 1657l10-76-7 5-11 96zM3060 1675l9-3 11-133-9 120-9 3-6-106zM2981 1698l10-97 8 78-6-86-11 167-7-165zM2864 1790l9-120-7 0-9 5zM2845 1736l9 18-6-50-10-58zM2752 1747l9-48 9 10-5 56-10 11-9-32z"/><path class="w11" d="M3087 1623l8 34-8 25-6-86zM3026 1629l7 70-5-70-10 55zM2891 1678l9 109-6-152-9 70zM2743 1773l9-26-6-3-10 3z"/><path class="w14" d="M3080 1539l7 84-6-27-10 63zM3044 1604l7 105-5-128-8 0zM3017 1632l9-3-8 55-7-124zM2972 1645l9 53-6-103-9 19zM2918 1681l9 0-6-86-9 78zM2900 1787l9-121-6-94-9 63zM2882 1597l9 81-6 27-10-20zM2798 1683l10-35-6 116-10-74zM2770 1709l9-28 11 68-7-52-10-26-8 94zM2722 1695l10 31-7-48-8 85z"/><path class="w13" d="M3051 1709l9-34-4-119-10 25zM3033 1699l11-95-6-23-10 48zM2955 1595l8 95 9-45-6-31-9 52-9-11zM2790 1749l8-66-6 7-9 7zM2732 1726l11 47-7-26-11-69zM2713 1705l9-10-5 68-9 39z"/><path class="w15" d="M2999 1679l10-97-7 33-9-22zM2927 1681l10-91 9 21 9-16-7 60-9 21-9 1-9-82zM2909 1666l9 15-6-8-9-101zM2873 1670l9-73-7 88-9-15zM2826 1675l10 0 9 61-7-90-9-6-9 50z"/><path class="w10" d="M2854 1754l10 36-7-115-9 29zM2705 1795l8-90-5 97-9 7z"/><path class="w7" d="M2698 1911l7-116-6 14-10-39z"/><path class="w17" d="M3111 1631l11-114-6-16-11 80zM2888 1669l10-93-7 102-9-81z"/><path class="w14" d="M3105 1530l6 101-6-50-10 76zM3006 1635l9 5-6-58-10 97zM2979 1650l10-50-8 98-9-53zM2961 1648l9 5-7 37-8-95zM2934 1694l9-21-6-83-10 91zM2767 1683l10 42 9 7 9-60-5 77-11-68-9 28-9-10z"/><path class="w13" d="M3084 1645l9 3 12-118-10 127-8-34-7-84zM3068 1627l11-120-10 165-9 3zM3015 1640l7 66-5-74-8-50zM2989 1600l7 90 10-55-7 44-8-78-10 97zM2970 1653l9-3-7-5-9 45zM2925 1665l9 29-7-13-9 0zM2898 1576l8 137-6 74-9-109zM2833 1738l9-28 9-50-6 76-9-61-10 0zM2795 1672l10 77 10 42-7-143-10 35-8 66zM2758 1768l9-85-6 16-9 48zM2730 1760l9-17-7-17-10-31z"/><path class="w15" d="M3079 1507l5 138-4-106-11 133zM2943 1673l9-4 9-21-6-53-9 16-9-21zM2879 1723l9-54-6-72-9 73z"/><path class="w11" d="M3060 1591l8 36-8 48-9 34zM3022 1706l10-24 9-24 8 9-5-63-11 95-7-70-9 3zM2870 1689l9 34-6-53-9 120zM2739 1743l11 77-7-47-11-47z"/><path class="w12" d="M3049 1667l11-76-9 118-7-105zM2915 1729l10-64-7 16-9-15zM2851 1660l10 31-7 63-9-18zM2710 1707l11 137 9-84-8-65-9 10-8 90z"/><path class="w10" d="M2906 1713l9 16-6-63-9 121zM2861 1691l9-2-6 101-10-36zM2750 1820l8-52-6-21-9 26zM2700 1733l10-26-5 88-7 116z"/><path class="w16" d="M2815 1791l8-151 10 98-7-63-10-98-8 71z"/><path class="w12" d="M3117 1648l6 82-1-213-11 114zM3091 1659l10-53-8 42-9-3zM3056 1651l8 65 10-63-6-26-8-36-11 76zM3003 1658l9 45 9-25-6-38-9-5-10 55zM2949 1684l9 43 10-62-7-17-9 21-9 4zM2913 1687l9-43-7 85-9-16zM2839 1725l10-26-7 11-9 28zM2802 1737l10 54-7-42-10-77zM2736 1744l9 12-6-13-9 17zM2708 1790l10 24-8-107-10 26z"/><path class="w14" d="M3110 1601l7 47-6-17-6-101zM3083 1620l8 39-7-14-5-138zM2985 1707l10-105 8 56-7 32-7-90-10 50zM2968 1665l9 1-7-13-9-5zM2931 1658l10 3-7 33-9-29zM2886 1686l9-27-7 10-9 54zM2858 1734l9-84 9 39-6 0-9 2-10-31zM2830 1695l9 30-6 13-10-98zM2792 1710l10 27-7-65-9 60zM2774 1738l9-7-6-6-10-42z"/><path class="w15" d="M3101 1606l9-5-5-71-12 118zM3074 1653l9-33-4-113-11 120zM2904 1651l9 36-7 26-8-137z"/><path class="w11" d="M3021 1678l9-14 9-15 8 34 9-32-7 16-8-9-9 24-10 24-7-66zM2718 1814l8-56 10-14-6 16-9 84-11-137z"/><path class="w13" d="M2977 1666l8 41-6-57-9 3zM2941 1661l8 23-6-11-9 21zM2922 1644l9 14-6 7-10 64zM2876 1689l10-3-7 37-9-34zM2849 1699l9 35-7-74-9 50zM2821 1732l9-37-7-55-8 151zM2783 1731l9-21-6 22-9-7zM2764 1749l10-11-7-55-9 85z"/><path class="w17" d="M2895 1659l9-8-6-75-10 93z"/><path class="w10" d="M2812 1791l9-59-6 59-10-42zM2745 1756l10 40 9-47-6 19-8 52-11-77z"/><path class="w10" d="M3113 1747l11-104 9-17-10 104-6-82-7-47zM2982 1735l10-30-7 2-8-41z"/><path class="w11" d="M3096 1707l10-46 7 86-3-146-9 5-10 53zM3053 1707l10-75-7 19-9 32zM3037 1644l7 104-5-99-9 15zM2956 1666l9 55 9-50-6-6-10 62-9-43zM2818 1728l9 12-6-8-9 59zM2770 1717l11 137 9-125-7 2-9 7-10 11zM2724 1801l9-22-7-21-8 56z"/><path class="w12" d="M3090 1596l6 111-5-48-8-39zM3063 1632l10-24-9 108-8-65zM3020 1615l7 80 10-51-7 20-9 14-9 25zM2992 1705l8 7-5-110-10 105zM2974 1671l8 64-5-69-9-1zM2901 1739l9 70-6-158-9 8zM2827 1740l10-4-7-41-9 37zM2808 1701l10 27-6 63-10-54zM2751 1723l10 30 9-36-6 32-9 47-10-40z"/><path class="w14" d="M3082 1598l8-2-7 24-9 33zM2938 1686l9-44 9 24-7 18-8-23-10-3zM2883 1766l9-153-6 73-10 3zM2864 1684l10 39-7-73-9 84zM2790 1729l9-34 9 6-6 36-10-27-9 21zM2742 1729l9-6-6 33-9-12z"/><path class="w13" d="M3073 1608l9-10-8 55-10 63zM3000 1712l10-53 10-44-8 88-9-45-8-56zM2910 1809l10-174-7 52-9-36zM2874 1723l9 43-7-77-9-39zM2837 1736l9-31 9-13 9-8-6 50-9-35-10 26-9-30zM2733 1779l9-50-6 15-10 14z"/><path class="w9" d="M3044 1748l9-41-6-24-8-34z"/><path class="w15" d="M2929 1638l9 48-7-28-9-14zM2892 1613l9 126-6-80-9 27z"/><path class="w16" d="M2920 1635l9 3-7 6-9 43z"/><path class="w8" d="M2715 1884l9-83-6 13-10-24z"/><path class="w12" d="M3130 1661l9-10-6-25-9 17zM3061 1661l9-43-7 14-10 75zM2999 1664l9-24-8 72-8-7zM2972 1661l8 33 10-18-8 59-8-64-9 50zM2944 1709l9 29-6-96-9 44zM2917 1694l9-20-6-39-10 174zM2880 1665l9 90 10-35-7-107-9 153-9-43zM2843 1745l9-21-6-19-9 31zM2806 1784l9 18-7-101-9-6z"/><path class="w9" d="M3122 1656l8 5-6-18-11 104zM3103 1719l10-77-7 19-10 46z"/><path class="w10" d="M3113 1642l9 14-9 91-7-86zM3053 1632l8 29-8 46-9 41zM2908 1731l9-37-7 115-9-70zM2731 1853l8-106-6 32-9 22z"/><path class="w11" d="M3096 1633l7 86-7-12-6-111zM3034 1660l8 52 11-80-9 116-7-104-10 51zM2990 1676l9-12-7 41-10 30zM2777 1778l10-36 9 5-6-18-9 125-11-137z"/><path class="w14" d="M3087 1677l9-44-6-37-8 2zM3016 1675l10-27-6-33-10 44zM2862 1743l9-66-7 7-9 8z"/><path class="w13" d="M3070 1618l7 92 10-33-5-79-9 10-10 24zM3026 1648l8 12-7 35-7-80zM3008 1640l8 35-6-16-10 53zM2953 1738l10-72 9-5-7 60-9-55-9-24zM2899 1720l9 11-7 8-9-126zM2852 1724l10 19-7-51-9 13zM2833 1671l10 74-6-9-10 4zM2815 1802l9-128-6 54-10-27zM2796 1747l10 37-7-89-9 34zM2767 1734l10 44-7-61-9 36zM2739 1747l10 28-7-46-9 50z"/><path class="w15" d="M2936 1636l8 73-6-23-9-48zM2871 1677l9-12-6 58-10-39zM2824 1674l9-3-6 69-9-12zM2749 1775l8-106 10 65-6 19-10-30-9 6z"/><path class="w16" d="M2926 1674l10-38-7 2-9-3z"/><path class="w8" d="M2720 1782l11 71-7-52-9 83z"/><path class="w10" d="M3137 1652l7 59-5-60-9 10zM3092 1741l10-49 9-17 8 9-6-42-10 77-7-86-9 44zM2986 1794l10-66-6-52-10 18zM2950 1790l10-99-7 47-9-29zM2736 1800l10 23-7-76-8 106z"/><path class="w11" d="M3119 1684l10-35 8 3-7 9-8-5-9-14zM2978 1703l8 91-6-100-8-33zM2960 1691l8 82-5-107-10 72zM2942 1728l8 62-6-81-8-73zM2812 1736l9-6 10 111-7-167-9 128-9-18zM2784 1779l9 16-6-53-10 36zM2726 1762l10 38-5 53-11-71z"/><path class="w8" d="M3083 1737l9 4-5-64-10 33z"/><path class="w12" d="M3078 1584l5 153-6-27-7-92zM3058 1690l9-19-6-10-8-29zM3023 1701l8 4 9 8 11-105-9 104-8-52-8-12-10 27zM2996 1728l9-19-6-45-9 12zM2968 1773l10-70-6-42-9 5zM2915 1665l8 91-6-62-9 37zM2859 1715l9 20-6 8-10-19zM2774 1749l10 30-7-1-10-44z"/><path class="w14" d="M3067 1671l11-87-8 34-9 43zM2933 1695l9 33-6-92-10 38zM2905 1663l10 2-7 66-9-11zM2868 1735l9-59-6 1-9 66zM2840 1726l9-34-6 53-10-74zM2765 1782l9-33-7-15-10-65z"/><path class="w13" d="M3051 1608l7 82-5-58-11 80zM3005 1709l9-45 9 37-7-26-8-35-9 24zM2923 1756l10-61-7-21-9 20zM2887 1723l9-29 9-31-6 57-10 35-9-90zM2849 1692l10 23-7 9-9 21zM2831 1841l9-115-7-55-9 3zM2793 1795l9-100 10 41-6 48-10-37-9-5zM2746 1823l8-131-5 83-10-28z"/><path class="w15" d="M2877 1676l10 47-7-58-9 12zM2754 1692l11 90-8-113-8 106z"/><path class="w10" d="M3143 1676l10-35-9 70-7-59zM3029 1713l9 8-7-16-8-4zM2966 1724l9 45-7 4-8-82zM2828 1759l9 10-6 72-10-111z"/><path class="w12" d="M3119 1614l7 56 10-39 7 45-6-24-8-3-10 35-8-9zM3083 1666l8 31-8 40-5-153zM3065 1681l9-28-7 18-9 19zM2985 1638l9 33-8 123-8-91zM2800 1786l9 4-7-95-9 100zM2752 1811l10-13-8-106-8 131z"/><path class="w11" d="M3108 1725l11-111-8 61-9 17zM3046 1760l10-84-5-68-11 105zM2994 1671l9 6-7 51-10 66zM2975 1769l10-131-7 65-10 70zM2948 1719l10-43 8 48-6-33-10 99-8-62zM2837 1769l10-71-7 28-9 115zM2771 1786l10 43 9-73 10 30-7 9-9-16-10-30-9 33zM2734 1898l8-149 10 62-6 12-10-23-10-38z"/><path class="w9" d="M3100 1681l8 44-6-33-10 49zM3038 1721l8 39-6-47-9-8z"/><path class="w8" d="M3091 1697l9-16-8 60-9-4z"/><path class="w14" d="M3074 1653l9 13-5-82-11 87zM2931 1639l9 13-7 43-10 61zM2912 1712l9 34-6-81-10-2zM2847 1698l9 67-7-73-9 34z"/><path class="w13" d="M3056 1676l9 5-7 9-7-82zM3022 1626l7 87-6-12-9-37zM3003 1677l10-64-8 96-9 19zM2940 1652l8 67-6 9-9-33zM2921 1746l10-107-8 117-8-91zM2856 1765l9-29 10-38-7 37-9-20-10-23zM2809 1790l9-59 10 28-7-29-9 6-10-41zM2762 1798l9-12-6-4-11-90z"/><path class="w15" d="M3013 1613l9 13-8 38-9 45zM2875 1698l9-10 9-10 10-26 9 60-7-49-9 31-9 29-10-47-9 59z"/><path class="w12" d="M3142 1646l8 32 10-47-7 10-10 35-7-45zM3126 1615l6 105-6-50-7-56zM3107 1664l10-49-9 110-8-44zM3037 1654l8 29-7 38-9-8zM2954 1793l11-139 7 137-6-67-8-48-10 43zM2918 1768l10-54 8 95-5-170-10 107-9-34zM2834 1748l10-23-7 44-9-10zM2805 1672l11 146-7-28-9-4zM2777 1724l10 39-6 66-10-43zM2750 1849l8-115-6 77-10-62z"/><path class="w11" d="M3132 1720l10-74-6-15-10 39zM3061 1759l11-90-7 12-9-5zM2946 1749l8 44-6-74-8-67zM2816 1818l9-54-7-33-9 59zM2787 1763l10 47-7-54-9 73zM2758 1734l11 122 8-132-6 62-9 12-10 13z"/><path class="w13" d="M3117 1615l9 0-7-1-11 111zM3072 1669l10-44 7 79-6-38-9-13-9 28zM2982 1719l10-60-7-21-10 131zM2936 1809l10-60-6-97-9-13zM2844 1725l9 12 9-21 10 8 9 19 9 39 10-31-7-73-9 10-9 10-10 38-9 29-9-67-10 71zM2825 1764l9-16-6 11-10-28zM2797 1810l8-138-5 114-10-30z"/><path class="w10" d="M3089 1704l8 18 10-58-7 17-9 16-8-31zM3045 1683l9 0-8 77-8-39zM2739 1752l11 97-8-100-8 149z"/><path class="w9" d="M3054 1683l7 76-5-83-10 84zM2972 1791l10-72-7 50-9-45z"/><path class="w14" d="M3028 1672l9-18-8 59-7-87zM3001 1673l9-13-7 17-9-6zM2909 1690l9 78-6-56-9-60z"/><path class="w16" d="M3019 1660l9 12-6-46-9-13z"/><path class="w15" d="M3010 1660l9 0-6-47-10 64zM2992 1659l9 14-7-2-9-33zM2900 1751l9-61-6-38-10 26z"/><path class="w12" d="M3158 1656l8-3-6-22-10 47zM3131 1675l10-26-9 71-6-105zM3088 1680l8 16-7 8-7-79zM3034 1702l8 44 10-63 9 17-7-17-9 0-8-29-9 18zM2971 1723l9-13-8 81-7-137zM2831 1757l10 58 9-52-6-38-10 23-9 16zM2813 1822l9-25-6 21-11-146zM2775 1814l9-63-7-27-8 132z"/><path class="w10" d="M3141 1649l5 99 12-92-8 22-8-32-10 74zM3061 1700l8 44 9-43-6-32-11 90-7-76zM2953 1693l8 68-7 32-8-44zM2888 1792l9-27-7 17-9-39zM2765 1831l10-17-6 42-11-122z"/><path class="w14" d="M3124 1624l7 51-5-60-9 0zM2999 1642l7 108 11-122-7 32-9 13-9-14zM2860 1651l9 153-7-88-9 21z"/><path class="w13" d="M3113 1719l11-95-7-9-10 49zM3078 1701l10-21-6-55-10 44zM3025 1716l9-14-6-30-9-12zM2925 1732l9-68 9 30-7 115-8-95-10 54zM2869 1804l9-110 10 98-7-49-9-19-10-8zM2793 1728l10 22 10 72-8-150-8 138-10-47zM2745 1723l10 82-5 44-11-97z"/><path class="w11" d="M3096 1696l10-54 7 77-6-55-10 58-8-18zM2980 1710l9-29-7 38-10 72zM2961 1761l10-38-6-69-11 139zM2943 1694l10-1-7 56-10 60zM2897 1765l9-23 9 63 10-73-7 36-9-78-9 61-10 31zM2822 1797l9-40-6 7-9 54zM2755 1805l10 26-7-97-8 115z"/><path class="w15" d="M3017 1628l8 88-6-56-9 0zM2989 1681l10-39-7 17-10 60zM2850 1763l10-112-7 86-9-12zM2784 1751l9-23-6 35-10-39z"/><path class="w11" d="M3139 1660l6 60 13-135 4 149 12-102-8 21-8 3-12 92-5-99-10 26zM3058 1708l9 16-6-24-9-17zM2969 1682l8 87-6-46-10 38zM2894 1838l10-149-7 76-9 27zM2847 1749l10 19-7-5-9 52zM2781 1857l10-54-7-52-9 63z"/><path class="w13" d="M3130 1645l9 15-8 15-7-51zM3004 1728l10-50 8 52-5-102-11 122-7-108zM2950 1762l9-57 10-23-8 79-8-68-10 1zM2904 1689l9 45-7 8-9 23zM2876 1767l9-88-7 15-9 110zM2857 1768l9 53-6-170-10 112zM2809 1746l10-1 9-51 10 66-7-3-9 40-9 25-10-72zM2753 1852l8-123-6 76-10-82z"/><path class="w14" d="M3122 1616l8 29-6-21-11 95zM2987 1695l9-3 8 36-5-86-10 39-9 29zM2791 1803l9-71-7-4-9 23z"/><path class="w12" d="M3093 1722l11-84 7 83 11-105-9 103-7-77-10 54-8-16zM3050 1679l8 29-6-25-10 63zM3022 1730l9 4-6-18-8-88zM2977 1769l10-74-7 15-9 13zM2885 1679l9 159-6-46-10-98zM2866 1821l10-54-7 37-9-153zM2838 1760l9-11-6 66-10-58zM2761 1729l11 96-7 6-10-26z"/><path class="w10" d="M3084 1748l9-26-5-42-10 21zM3031 1734l9 28 10-83-8 67-8-44-9 14zM2913 1734l9 48 9-52-6 2-10 73-9-63z"/><path class="w9" d="M3067 1724l8 18 9 6-6-47-9 43-8-44zM2772 1825l9 32-6-43-10 17z"/><path class="w15" d="M2931 1730l10-80 9 112-7-68-9-30-9 68zM2800 1732l9 14-6 4-10-22z"/><path class="w12" d="M3161 1724l12-113 7 42-6-21-12 102-4-149zM3143 1728l13-134-11 126-6-60zM3118 1710l10-53-6-41-11 105zM3083 1703l12-128 6 132 8 0-5-69-11 84-9 26-9-6zM3020 1724l9 3-7 3-8-52zM2956 1791l10-88-7 2-9 57zM2929 1705l9 44-7-19-9 52zM2910 1755l9 70-6-91-9-45zM2759 1845l9-89-7-27-8 123z"/><path class="w13" d="M3156 1594l5 130-3-139-13 135zM2993 1751l10-51 8 7 9 17-6-46-10 50-8-36-9 3zM2948 1681l8 110-6-29-9-112zM2882 1752l9 54-6-127-9 88zM2854 1810l9-101-6 59-10-19zM2835 1777l10 40-7-57-10-66zM2768 1756l10 72-6-3-11-96z"/><path class="w11" d="M3136 1701l7 27-4-68-9-15zM3109 1707l9 3-7 11-7-83zM3048 1688l8 33 9 14 10-69 8 37-8 39-8-18-9-16-8-29-10 83zM3029 1727l9 8-7-1-9-4zM2984 1722l9 29-6-56-10 74zM2919 1825l10-120-7 77-9-48zM2891 1806l10-35 9-16-6-66-10 149-9-159zM2863 1709l10 105-7 7-9-53zM2845 1817l9-7-7-61-9 11zM2788 1835l8-110-5 78-10 54z"/><path class="w14" d="M3128 1657l8 44-6-56-8-29zM2976 1634l8 88-7 47-8-87zM2796 1725l11 86 9-51 10 30 9-13-7-83-9 51-10 1-9-14-9 71z"/><path class="w10" d="M3038 1735l10-47-8 74-9-28zM2873 1814l9-62-6 15-10 54z"/><path class="w16" d="M2966 1703l10-69-7 48-10 23z"/><path class="w15" d="M2938 1749l10-68-7-31-10 80z"/><path class="w9" d="M2778 1828l10 7-7 22-9-32z"/><path class="w13" d="M3160 1709l11-76 8 19 7 44-6-43-7-42-12 113-5-130zM3090 1700l8 36 9-19-6-10-6-132-12 128zM3072 1714l11-92-8 44-10 69zM3046 1689l9-20 9 6-8 46-8-33-10 47zM3008 1792l11-158-8 73-8-7zM2954 1713l9 21-7 57-8-110zM2765 1822l9-56-6-10-9 89z"/><path class="w9" d="M3148 1821l12-112-4-115-13 134zM2851 1806l10 27-7-23-9 7z"/><path class="w8" d="M3144 1666l4 155-5-93-7-27z"/><path class="w12" d="M3125 1708l9-16 10-26-8 35-8-44-10 53zM3064 1675l8 39-7 21-9-14zM3027 1730l9-9 10-32-8 46-9-8-9-3zM2870 1816l9-92 10 71 9-68 9 45 10-42-7 25-9 16-10 35-9-54-9 62-10-105zM2832 1740l10 84-7-47-9 13zM2794 1763l10 75 9-35-6 8-11-86-8 110zM2774 1766l11 117-7-55-10-72z"/><path class="w11" d="M3107 1717l10-23 8 14-7 2-9-3-8 0zM2991 1682l8 125-6-56-9-29zM2963 1734l9 38-6-69-10 88zM2917 1730l9 54 10-44-7-35-10 120-9-70zM2861 1833l9-17-7-107-9 101zM2823 1914l9-174-6 50-10-30z"/><path class="w14" d="M3083 1622l7 78-7 3-8-37zM3019 1634l8 96-7-6-9-17zM2972 1772l10-74-6-64-10 69z"/><path class="w10" d="M2999 1807l9-15-5-92-10 51zM2842 1824l9-18-6 11-10-40zM2813 1803l10 111-7-154-9 51zM2785 1883l9-120-6 72-10-7z"/><path class="w15" d="M2982 1698l9-16-7 40-8-88zM2936 1740l10-105-8 114-9-44z"/><path class="w16" d="M2946 1635l8 78-6-32-10 68z"/><path class="w10" d="M3184 1698l6 70-4-72-7-44zM3151 1663l7 43-10 115-4-155zM3106 1683l7 75 10-37-6-27-10 23-9 19zM3033 1776l9-24-6-31-9 9zM3007 1700l8 50-7 42-9 15zM2877 1870l9-65-7-81-9 92zM2848 1830l10-29 9 15-6 17-10-27-9 18zM2810 1868l10-43-7-22-9 35zM2782 1906l9-133 10 118-7-128-9 120-11-117z"/><path class="w12" d="M3169 1646l6 69 9-17-5-46-8-19-11 76zM3123 1721l11-100 5 125 12-83-7 3-10 26-9 16-8-14zM3097 1684l9-1-8 53-8-36zM3042 1752l10-55-6-8-10 32zM2997 1753l10-53-8 107-8-125zM2970 1768l10-68 8 91-6-93-10 74-9-38zM2895 1809l10-55-7-27-9 68z"/><path class="w9" d="M3158 1706l11-60-9 63-12 112zM2820 1825l9-25-6 114-10-111zM2801 1891l9-23-6-30-10-75z"/><path class="w14" d="M3088 1710l9-26-7 16-7-78zM3052 1697l9-8-6-20-9 20z"/><path class="w13" d="M3071 1664l8 61 9-15-5-88-11 92-8-39zM3015 1750l10-46 8 72-6-46-8-96-11 158zM2988 1791l9-38-6-71-9 16zM2961 1721l9 47-7-34-9-21zM2905 1754l9 27 10-52 9 4 9-9-6 16-10 44-9-54-10 42-9-45z"/><path class="w15" d="M3061 1689l10-25-7 11-9-6z"/><path class="w16" d="M2942 1724l10-17 9 14-7-8-8-78-10 105z"/><path class="w11" d="M2886 1805l9 4-6-14-10-71zM2829 1800l10-3 9 33-6-6-10-84-9 174zM2772 1821l10 85-8-140-9 56z"/><path class="w8" d="M2867 1816l10 54-7-54-9 17z"/><path class="w10" d="M3193 1645l7 35-10 88-6-70zM3121 1707l9 12-7 2-10 37zM3031 1777l8 29 12-131-9 77-9 24-8-72zM2985 1806l9 19-6-34-8-91zM2883 1763l10 21 9 55 9-35 9 53-6-76-9-27-10 55-9-4-9 65zM2807 1775l9 8-6 85-9 23zM2788 1853l9-31-6-49-9 133z"/><path class="w11" d="M3165 1716l7 28 11-54 10-45-9 53-9 17-6-69-11 60zM3112 1728l9-21-8 51-7-75zM3085 1756l9-26-6-20-9 15zM3058 1761l9 17-6-89-9 8zM3022 1764l9 13-6-73-10 46zM2920 1857l10-88-6-40-10 52zM2855 1805l9 4 10-46 9 0-6 107-10-54-9-15-10 29zM2816 1783l10 22 10 47-7-52-9 25-10 43z"/><path class="w12" d="M3149 1662l8 21 8 33-7-10-7-43-12 83zM3130 1719l9-7-5-91-11 100zM3067 1778l9-48 9 26-6-31-8-61-10 25zM3051 1675l7 86-6-64-10 55zM3004 1782l10-60 8 42-7-14-8-50-10 53zM2836 1852l9-89 10 42-7 25-9-33-10 3zM2797 1822l10-47-6 116-10-118z"/><path class="w13" d="M3139 1712l10-50-10 84-5-125zM3094 1730l11-77 7 75-6-45-9 1-9 26zM2958 1773l9 0 11-110 7 143-5-106-10 68-9-47-9-14zM2930 1769l9 8-6-44-9-4z"/><path class="w9" d="M2994 1825l10-43-7-29-9 38zM2779 1884l9-31-6 53-10-85z"/><path class="w14" d="M2939 1777l10-52 9 48-6-66-10 17-9 9z"/><path class="w12" d="M3199 1670l8 32-7-22-7-35zM3147 1667l7 69 9-19-6-34-8-21-10 50zM3130 1652l6 95-6-28-9-12zM3076 1675l8 31 9-4-8 54-9-26-9 48zM3057 1722l8 43-7-4-7-86zM3020 1777l9-53-7 40-8-42zM2918 1764l10-81 9 102-7-16-10 88-9-53zM2823 1797l10 32-7-24-10-22zM2784 1767l10 6-6 80-9 31z"/><path class="w13" d="M3190 1697l9-27-6-25-10 45zM3101 1719l9 0-5-66-11 77zM2983 1755l10-7-8 58-7-143zM2871 1737l9 72-6-46-10 46z"/><path class="w9" d="M3171 1722l8 38 11-63-7-7-11 54-7-28zM2993 1748l8 48 10-61-7 47-10 43-9-19z"/><path class="w11" d="M3163 1717l8 5-6-6-8-33zM3136 1747l11-80-8 45-9 7zM3110 1719l6 100 14-167-9 55-9 21-7-75zM3093 1702l8 17-7 11-9 26zM3065 1765l11-90-9 103-9-17zM3046 1806l11-84-6-47-12 131zM3011 1735l9 42-6-55-10 60zM2937 1785l9 43 9-57 9 50 10-79-7 31-9 0-9-48-10 52-9-8zM2880 1809l10 42 9-42 10-31 9-14-7 40-9 35-9-55-10-21-9 0zM2862 1864l9-127-7 72-9-4zM2833 1829l9-13 10 32-7-85-9 89-10-47zM2814 1921l9-124-7-14-9-8zM2794 1773l10 107-7-58-9 31z"/><path class="w8" d="M3038 1773l8 33-7 0-8-29z"/><path class="w10" d="M3029 1724l9 49-7 4-9-13zM2852 1848l10 16-7-59-10-42zM2804 1880l10 41-7-146-10 47z"/><path class="w14" d="M2974 1742l9 13-5-92-11 110z"/><path class="w14" d="M3198 1663l10-36 9-23-10 98-8-32-9 27zM3173 1634l9-15-11 103-8-5zM2934 1754l10 38-7-7-9-102zM2792 1865l9-64-7-28-10-6z"/><path class="w11" d="M3188 1690l10-27-8 34-11 63zM3134 1749l9-17 8 25-4-90-11 80-6-95zM3106 1805l11-93-7 7-9 0zM2989 1823l10-74-6-1-10 7zM2953 1803l10-61 8 59-7 20-9-50-9 57zM2887 1797l10-35-7 89-10-42zM2868 1889l10-104-7-48-9 127zM2801 1801l10 69-7 10-10-107z"/><path class="w12" d="M3182 1619l6 71-9 70-8-38zM3151 1757l12-85-9 64-7-69zM3080 1778l10-21-6-51-8-31zM3010 1680l7 143-6-88-10 61zM2906 1870l10-180-7 88-10 31zM2830 1824l9-19 10-26 10 29-7 40-10-32-9 13-10-32z"/><path class="w13" d="M3163 1672l10-38-10 83-9 19zM3027 1755l10-66 8 41-7 43-9-49-9 53zM2999 1749l11-69-9 116-8-48zM2916 1690l9 158 9-94-6-71-10 81-9 14zM2878 1785l9 12-7 12-9-72z"/><path class="w10" d="M3117 1712l8 30 9 7-4-97-14 167-6-100zM3090 1757l7 81-4-136-9 4zM3070 1822l10-44-4-103-11 90zM3045 1730l8 47-7 29-8-33zM3017 1823l10-68-7 22-9-42zM2944 1792l9 11-7 25-9-43zM2897 1762l9 108-7-61-9 42z"/><path class="w9" d="M3097 1838l9-33-5-86-8-17zM3053 1777l9 26 8 19-5-57-8-43-11 84zM2971 1801l8 80 10-58-6-68-9-13-10 79zM2859 1808l9 81-6-25-10-16zM2821 1876l9-52-7-27-9 124z"/><path class="w7" d="M2811 1870l10 6-7 45-10-41z"/><path class="w14" d="M3213 1691l7 31-3-118-9 23zM3035 1681l7 95-5-87-10 66zM2884 1816l10-99 9 65-6-20-10 35-9-12z"/><path class="w13" d="M3168 1730l8 14 9-10 11-69 7 42 10-16-5-64-10 36-10 27-6-71-9 15-10 38zM3143 1674l9-8-9 66-9 17zM3125 1698l9-7-9 51-8-30zM3025 1701l10-20-8 74-10 68zM2969 1782l10-56-8 75-8-59zM2922 1822l10-68-7 94-9-158z"/><path class="w10" d="M3158 1766l10-36-5-58-12 85zM3108 1642l7 72-9 91-9 33zM3087 1768l10-12-7 1-10 21zM2979 1726l8 52-8 103-8-80zM2837 1837l9 56-7-88-9 19z"/><path class="w11" d="M3152 1666l6 100-7-9-8-25zM3115 1714l10-16-8 14-11 93zM3097 1756l11-114-11 196-7-81zM3014 1853l11-152-8 122-7-143zM2941 1804l9 33 10-76-7 42-9-11-10-38zM2903 1782l10 50 9-10-6-132-10 180-9-108zM2846 1893l10-44 9-4 10-83 9 54-6-31-10 104-9-81-10-29-10 26zM2808 1854l9-9 10-56 10 48-7-13-9 52-10-6-10-69z"/><path class="w12" d="M3134 1691l9-17-9 75-9-7zM3042 1776l9 29-6-75-8-41zM3007 1733l7 120-4-173-11 69zM2960 1761l9 21-6-40-10 61zM2932 1754l9 50-7-50-9 94zM2798 1819l10 35-7-53-9 64z"/><path class="w9" d="M3051 1805l8 16 11-97 9 37 8 7-7 10-10 44-8-19-9-26-8-47zM2995 1902l12-169-8 16-10 74z"/><path class="w6" d="M2987 1778l8 124-6-79-10 58z"/><path class="w13" d="M3211 1694l11-54 8 9-10 73-7-31-10 16zM3113 1755l9-19 9-15 9-2-6-28-9 7-10 16-7-72zM3041 1736l8 27-7 13-7-95zM2957 1759l10-52-7 54-10 76z"/><path class="w12" d="M3193 1699l9 6 9-11-8 13-7-42-11 69zM3157 1740l11-64-10 90-6-100zM3103 1770l10-15-5-113-11 114zM3077 1757l9-34-7 38-9-37zM3022 1788l10-66-7-21-11 152zM2985 1754l9 71-7-47-8-52zM2967 1707l8 179-6-104-9-21zM2872 1854l10-47 9 22 9 47 10-52-7-42-9-65-10 99-9-54-10 83zM2834 1857l9-28-6 8-10-48zM2814 1883l9-152-6 114-9 9z"/><path class="w10" d="M3174 1745l9-5 10-41-8 35-9 10-8-14zM3094 1778l9-8-6-14-10 12zM3049 1763l9 11-7 31-9-29zM3012 1811l10-23-8 65-7-120zM2938 1881l9-54-6-23-9-50zM2919 1844l10-60-7 38-9 10zM2853 1766l9 103-6-20-10 44z"/><path class="w11" d="M3168 1676l6 69-6-15-10 36zM3086 1723l8 55-7-10-8-7zM3068 1758l9-1-7-33-11 97zM2975 1886l10-132-6-28-10 56zM2947 1827l10-68-7 78-9-33zM2929 1784l9 97-6-127-10 68zM2910 1824l9 20-6-12-10-50zM2843 1829l10-63-7 127-9-56zM2804 1823l10 60-6-29-10-35z"/><path class="w14" d="M3140 1719l11-54 6 75-5-74-9 8-9 17zM2823 1731l11 126-7-68-10 56z"/><path class="w9" d="M3058 1774l10-16-9 63-8-16zM3003 1819l9-8-5-78-12 169zM2862 1869l10-15-7-9-9 4z"/><path class="w15" d="M3032 1722l9 14-6-55-10 20z"/><path class="w8" d="M2994 1825l9-6-8 83-8-124z"/></g>
<path d="M1397.4 1043.6L1638.5 953.2M1237.4 917.8L1397.4 1043.6M1237.4 917.8L1229.1 724.6M1418.5 1039.7L1413.1 1035.5M1381.3 1035.7L1387.7 1033.4M1472.6 1019.4L1467.1 1015.3M1344.9 1007L1351.3 1004.7M1525.3 999.5L1519.7 995.6M1309.8 979.4L1316.2 977.2M1576.5 980.3L1570.9 976.4M1276 952.8L1282.4 950.6M1626.5 961.5L1620.8 957.7M1243.4 927.2L1249.8 925M1232 891L1238.5 888.9M1230.5 856L1236.9 853.9M1228.9 820.4L1235.4 818.4M1227.3 783.7L1233.8 781.8M1225.7 745.3L1232.2 743.4" stroke="#111" stroke-width="0.85" fill="none"/>
<g class="tk" font-size="14"><text x="1423.9" y="1064">−10</text><text x="1373.7" y="1059.1">−10</text><text x="1477.7" y="1043.4">−5</text><text x="1337.3" y="1030">−5</text><text x="1530" y="1023.2">0</text><text x="1302.2" y="1001.9">0</text><text x="1581" y="1003.6">5</text><text x="1268.4" y="974.9">5</text><text x="1630.7" y="984.5">10</text><text x="1235.8" y="948.8">10</text></g>
<text class="al" x="1544.4" y="1043.1" font-size="16.4">x</text>
<text class="al" x="1282" y="1016.4" font-size="16.4">y</text>
<text class="zl" transform="translate(1211.9 822) rotate(87.5)" font-size="15.6">Error</text>
<linearGradient id="g4" x1="0" y1="0" x2="0" y2="1"><stop offset="0%" stop-color="#b40426"/><stop offset="6.2%" stop-color="#ca3b37"/><stop offset="12.5%" stop-color="#dd5f4b"/><stop offset="18.8%" stop-color="#eb7d62"/><stop offset="25%" stop-color="#f4987a"/><stop offset="31.2%" stop-color="#f7b093"/><stop offset="37.5%" stop-color="#f5c4ac"/><stop offset="43.8%" stop-color="#ecd3c5"/><stop offset="50%" stop-color="#dddcdc"/><stop offset="56.2%" stop-color="#ccd9ed"/><stop offset="62.5%" stop-color="#b9d0f9"/><stop offset="68.8%" stop-color="#a3c2fe"/><stop offset="75%" stop-color="#8db0fe"/><stop offset="81.2%" stop-color="#779af7"/><stop offset="87.5%" stop-color="#6282ea"/><stop offset="93.8%" stop-color="#4e68d8"/><stop offset="100%" stop-color="#3b4cc0"/></linearGradient>
<rect x="1662.8" y="704.1" width="19.4" height="284" fill="url(#g4)" stroke="#111" stroke-width="0.85"/>
<path d="M1682.2 975.2h3.3M1682.2 942.9h3.3M1682.2 910.6h3.3M1682.2 878.4h3.3M1682.2 846.1h3.3M1682.2 813.8h3.3M1682.2 781.6h3.3M1682.2 749.3h3.3M1682.2 717h3.3" stroke="#111" stroke-width="0.85" fill="none"/>
<g class="cb" font-size="12.0"><text x="1689.1" y="978.8">−2.0</text><text x="1689.1" y="946.5">−1.5</text><text x="1689.1" y="914.2">−1.0</text><text x="1689.1" y="882">−0.5</text><text x="1689.1" y="849.7">0.0</text><text x="1689.1" y="817.4">0.5</text><text x="1689.1" y="785.1">1.0</text><text x="1689.1" y="752.9">1.5</text><text x="1689.1" y="720.6">2.0</text></g>
<text class="cb" font-size="12.0" x="1683" y="701.4" text-anchor="end">×10<tspan dy="-4.6" font-size="8.4">−3</tspan></text>
<text class="cap" transform="translate(1459.8 1134.8) scale(1.06 1)" font-size="42" textLength="252.5" lengthAdjust="spacing">(e) FNO Error</text>
</g>
<g id="pf">
<path d="M642.5 1502.4L882.7 1423M882.7 1423L1059.7 1539.2M633.9 1301.5L884.1 1230.5M884.1 1230.5L1068.8 1334.6M882.7 1423L884.1 1230.5M1059.7 1539.2L1068.8 1334.6M809 1633.3L642.5 1502.4M809 1633.3L1059.7 1539.2M642.5 1502.4L633.9 1301.5" stroke="#f0f0f0" stroke-width="0.9" fill="none"/>
<path d="M827.3 1626.4L660 1496.7M660 1496.7L652.1 1296.4M796.6 1623.5L1046.5 1530.6M1046.5 1530.6L1055.1 1326.8M883.5 1605.4L713.7 1478.9M713.7 1478.9L708.1 1280.4M758.6 1593.7L1006.4 1504.2M1006.4 1504.2L1013 1303.1M938.2 1584.8L766 1461.6M766 1461.6L762.7 1264.9M722.2 1565L967.6 1478.7M967.6 1478.7L972.5 1280.3M991.5 1564.8L817.1 1444.7M817.1 1444.7L815.9 1249.8M687 1537.4L930.2 1454.2M930.2 1454.2L933.5 1258.3M1043.4 1545.4L867 1428.2M867 1428.2L867.7 1235.1M653.1 1510.8L894 1430.4M894 1430.4L895.8 1237.1M640.8 1463.2L883 1385.3M883 1385.3L1061.5 1499.3M639.2 1425.3L883.2 1348.9M883.2 1348.9L1063.2 1460.6M637.6 1386.7L883.5 1312M883.5 1312L1065 1421.4M635.9 1347.6L883.8 1274.5M883.8 1274.5L1066.8 1381.5M634.1 1307.8L884 1236.5M884 1236.5L1068.6 1340.9" stroke="#b6b6b6" stroke-width="0.85" fill="none"/>
<g transform="scale(0.5)" stroke-width="1.3" stroke-linejoin="round"><path class="v0" d="M1690 2889l8-2 8-2 8-3 8-3 8-2 8-2 8-3 8-3 8-2-5-4-8 2-8 3-8 3-8 2-8 2-8 3-8 2-8 2-8 3zM1658 2899l8-2-5-5-9 4zM1346 3004l9-2 9-3 8-3 9-5 9-2-6-5-8 4-9 3-9 4-8 3-9 3z"/><path class="v1" d="M1666 2897l8-3 8-2 8-3-5-4-8 1-8 4-8 2zM1390 2989l8-5 9-5 9-2 8-4 9-3 8-3 9-6 8-4 9-3 8-3 9-3 8-3 9-4 8-3 8-4 9-1 8-2 9-3 8-3 8-2 9-3 8-2 8-2 8-2 9-1 8 0 8-3 8-3 9-2 8-3 8-1 8-2-6-3-8 2-8 1-8 2-8 4-8 3-9 2-8 1-8 2-8 2-9 2-8 2-8 2-9 3-8 4-8 3-9 2-8 3-8 2-9 3-8 3-9 3-8 3-9 3-8 3-9 3-8 5-9 3-8 4-9 2-8 4-9 4-9 3z"/><path class="v0" d="M1672 2900l8-2 8-2 8-3 8-2 8-3 8-3 8-3 8-1 8-3 8-3 8-2 8-3-6-3-8 2-8 3-8 3-8 2-8 2-8 3-8 3-8 2-8 2-8 3-8 2-8 3zM1352 3008l8-2 9-3 9-4-6-3-8 3-9 3-9 2z"/><path class="v1" d="M1573 2921l8-1 9-3 8-2 8-1 9 0 8-3 8-1 8-3 8-1 8-3 9-2 8-1-6-3-8 2-8 2-8 1-8 3-9 2-8 3-8 3-8 0-9 1-8 2-8 2-8 2zM1378 2999l8-5 9-2 9-5 8-4 9-4 8-4 9-2 9-5 8-5 9-3 8-6-5 0-9 3-8 4-9 6-8 3-9 3-8 4-9 2-9 5-8 5-9 2-9 5z"/><path class="v2" d="M1472 2954l9-4 8-2 9-3 8-3 8-4 9-3 8-3 9-3 8-2 8-1 9-2 8-3-5-1-9 3-8 2-8 3-9 3-8 2-9 1-8 4-8 3-9 4-8 3-9 3-8 3z"/><path class="v0" d="M1685 2902l9-3 8-2 8-3 8-2 8-3 8-3 8-2 8-2 8-3 8-3 8-3-6-3-8 3-8 2-8 3-8 3-8 1-8 3-8 3-8 3-8 2-8 3-8 2zM1357 3012l9-2 9-4 8-4-5-3-9 4-9 3-8 2z"/><path class="v1" d="M1612 2915l8 0 8-2 9-2 8-2 8-1 8-1 8-3 8-1 8-1-5-4-8 2-8 1-9 2-8 3-8 1-8 3-8 1-8 3-9 0zM1383 3002l9-3 8-5 9-5 9-4 8-4 9-4 8-4 9-4 9-5-6-1-8 5-9 5-9 2-8 4-9 4-8 4-9 5-9 2-8 5z"/><path class="v2" d="M1461 2964l8-4 8-6 9-4 8-3 9-3 8-4 9-4 8-3 9-3 8-3 9-2 8-1 8-1 9-2 8-2 8-1 9-2 8-1-6-1-8 1-8 2-9 3-8 1-8 3-9 2-8 1-8 2-9 3-8 3-9 3-8 4-8 3-9 3-8 2-9 4-8 6-9 3z"/><path class="v0" d="M1691 2905l8-2 8-2 8-2 8-4 8-2 9-3 8-2 8-2 7-4 8-2 8-4-5-3-8 3-8 3-8 3-8 2-8 2-8 3-8 3-8 2-8 3-8 2-9 3zM1362 3016l9-4-5-2-9 2z"/><path class="v1" d="M1626 2916l8-3 8-1 8 0 9-1 8-3 8 0 8-1 8-2-6-3-8 1-8 1-8 3-8 1-8 1-8 2-9 2-8 2zM1371 3012l9-4 9-4 8-3 9-4 8-6 9-4 9-4 8-5 9-4-6-1-8 4-9 4-8 4-9 4-9 5-8 5-9 3-8 4-9 4z"/><path class="v2" d="M1567 2922l9 0 8-1 8-3 9-1 8-1 8 0 9 0-6-1-8 0-8 1-9 2-8 1-8 2-9 2-8 1zM1449 2974l8-5 9-7 8-4 9-6 8-3-5 1-9 4-8 6-8 4-9 5-9 4z"/><path class="v3" d="M1491 2949l9-6 8-3 9-3 8-4 9-3 8-3 9-2 8-2 8-1-5 2-8 1-9 2-8 3-9 3-8 3-9 4-8 4-9 3-8 3z"/><path class="v0" d="M1713 2905l8-3 8-4 8-2 8-2 8-2 8-3 8-3 8-2 8-3-6-5-8 4-8 2-7 4-8 2-8 2-9 3-8 2-8 4-8 2z"/><path class="v1" d="M1648 2914l8 0 8-2 8-1 9-1 8-1 8-1 8-2 8-1-6-4-8 2-8 2-8 2-8 1-8 0-8 3-9 1-8 0zM1368 3019l9-3 8-3 9-4 9-6 8-4 9-5 9-5 8-5-5-1-9 4-9 4-8 6-9 4-8 3-9 4-9 4-9 4z"/><path class="v2" d="M1606 2917l9-1 8 0 8 0 9-1 8-1-6-2-8 1-8 3-9 0-8 0-8 1zM1437 2984l9-4 8-6 9-6 8-7-5 1-9 7-8 5-9 4-8 5z"/><path class="v3" d="M1548 2924l8-2 8-3 9 0 8 0 9-1 8-2 8 1-5 0-9 1-8 3-8 1-9 0-8 1-8 2-9 2zM1471 2961l9-4 8-6 9-5 8-6 9-4 8-3-5 4-9 3-8 3-9 6-8 3-9 6-8 4z"/><path class="v4" d="M1522 2933l9-5 8-2 9-2-6 3-8 3-9 3-8 4z"/><path class="v0" d="M1727 2905l8-3 8-2 8-3 8-2 8-3 8-2 8-3 8-2-6-4-8 3-8 2-8 3-8 3-8 2-8 2-8 2-8 4z"/><path class="v1" d="M1670 2914l8-1 8 0 8 0 9-1 8-4 8-1 8-2-6-3-8 3-8 1-8 2-8 1-8 1-9 1-8 1zM1373 3024l9-4 9-4 8-4 9-4 9-7 8-5-5-2-9 5-8 4-9 6-9 4-8 3-9 3z"/><path class="v2" d="M1629 2915l8 1 8-1 8 0 9-1 8 0-6-2-8 2-8 0-8 1-9 1-8 0zM1425 2996l9-6 9-5 8-6 9-6-6 1-8 6-9 4-8 5-9 5z"/><path class="v3" d="M1595 2915l9-1 8 1 8-1 9 1-6 1-8 0-9 1-8-1-8 2zM1460 2973l8-6 9-7 8-6 9-7-6 4-8 6-9 4-8 7-9 6z"/><path class="v4" d="M1494 2947l8-6 9-5 8-4 9-5 8-4 9-3 8-2 9-2 8-2 8 1 9-1 8 1-5 3-9 1-8 0-9 0-8 3-8 2-9 2-8 2-9 5-8 3-9 4-8 6-9 5z"/><path class="v0" d="M1741 2907l8-2 8-3 8-3 8-3 8-3 8-2 8-3-6-3-8 2-8 3-8 2-8 3-8 2-8 3-8 2z"/><path class="v1" d="M1684 2915l8 0 8 0 8-1 8-1 8-3 9-2 8-1-6-5-8 3-8 2-8 1-8 4-9 1-8 0-8 0zM1379 3027l9-3 8-4 9-5 9-5 8-7 9-4-6-3-8 5-9 7-9 4-8 4-9 4-9 4z"/><path class="v2" d="M1651 2914l8 1 8 1 9 0 8-1-6-2-8 1-8 0-9 1-8 0zM1431 2999l8-4 9-8 9-7-6-1-8 6-9 5-9 6z"/><path class="v3" d="M1618 2911l8 2 8 0 9 1 8 0-6 1-8 1-8-1-9-1-8 1zM1457 2980l8-8 9-7 8-8-5 3-9 7-8 6-9 6z"/><path class="v4" d="M1592 2909l9 1 8 1 9 0-6 4-8-1-9 1-8-1zM1482 2957l9-8 8-7-5 5-9 7-8 6z"/><path class="v5" d="M1499 2942l9-6 8-6 9-5 8-5 9-5 8-3 9-2 8-1 8-1 9-1 8 2-5 5-9 1-8-1-8 2-9 2-8 2-9 3-8 4-9 5-8 4-9 5-8 6z"/><path class="v0" d="M1754 2908l8-3 8-3 9-3 8-3 7-3 8-1-5-4-8 3-8 2-8 3-8 3-8 3-8 3z"/><path class="v1" d="M1689 2918l9 0 8-1 8-1 8-2 8-2 8-1 8-2 8-1-5-3-8 2-8 1-9 2-8 3-8 1-8 1-8 0-8 0zM1384 3031l9-3 9-6 8-3 9-6 9-6-6-4-8 7-9 5-9 5-8 4-9 3z"/><path class="v2" d="M1665 2916l8 2 8 0 8 0-5-3-8 1-9 0-8-1zM1428 3007l8-6 9-6 8-9-5 1-9 8-8 4-9 4z"/><path class="v3" d="M1640 2912l8 1 9 2 8 1-6-1-8-1-8 0-9-1zM1453 2986l9-7 9-8-6 1-8 8-9 7z"/><path class="v4" d="M1623 2908l9 2 8 2-6 1-8 0-8-2zM1471 2971l8-8 9-9-6 3-8 8-9 7z"/><path class="v5" d="M1598 2902l8 2 9 2 8 2-5 3-9 0-8-1-9-1zM1488 2954l8-11 8-7-5 6-8 7-9 8z"/><path class="v6" d="M1564 2901l9 0 8 0 8-1 9 2-6 7-8-2-9 1-8 1-8 1zM1504 2936l9-8 8-8 9-6 8-5-5 11-8 5-9 5-8 6-9 6z"/><path class="v7" d="M1538 2909l9-4 8-3 9-1-5 9-9 2-8 3-9 5z"/><path class="v1" d="M1776 2905l8-4 8 0 8-4 8-2-6-3-8 1-7 3-8 3-9 3zM1703 2919l9 0 8 0 8-3 8-1 8-1 8-2 8-1 8-3-6-3-8 3-8 1-8 2-8 1-8 2-8 2-8 1-8 1zM1390 3035l8-4 9-5 9-4 9-6 8-7-5-2-9 6-9 6-8 3-9 6-9 3z"/><path class="v0" d="M1768 2908l8-3-6-3-8 3z"/><path class="v2" d="M1679 2917l8 2 8 0 8 0-5-1-9 0-8 0-8 0zM1433 3009l9-6 8-7-5-1-9 6-8 6z"/><path class="v3" d="M1654 2912l8 3 9 0 8 2-6 1-8-2-8-1-9-2zM1450 2996l9-9 8-9-5 1-9 7-8 9z"/><path class="v4" d="M1637 2906l9 4 8 2-6 1-8-1-8-2zM1467 2978l9-8 8-11-5 4-8 8-9 8z"/><path class="v5" d="M1620 2900l9 4 8 2-5 4-9-2-8-2zM1484 2959l9-10 8-12-5 6-8 11-9 9z"/><path class="v6" d="M1604 2895l8 3 8 2-5 6-9-2-8-2zM1501 2937l9-11-6 10-8 7z"/><path class="v7" d="M1578 2891l9 0 8 2 9 2-6 7-9-2-8 1-8 0zM1510 2926l8-10 9-9-6 13-8 8-9 8z"/><path class="v8" d="M1527 2907l8-7 9-5 8-2 9-2 9 0 8 0-5 10-9 0-9 1-8 3-9 4-8 5-9 6z"/><path class="v1" d="M1717 2921l8 0 9-1 8-2 8-2 8-2 8 0 8-3 8-3 8-2 8-2 8-3 8-3-6-3-8 2-8 4-8 0-8 4-8 3-8 3-8 1-8 2-8 1-8 1-8 3-8 0zM1395 3039l9-5 9-5 8-6 9-6-5-1-9 6-9 4-9 5-8 4z"/><path class="v2" d="M1693 2920l8-1 8 1 8 1-5-2-9 0-8 0-8 0zM1430 3017l9-7 8-6 9-8-6 0-8 7-9 6-8 7z"/><path class="v3" d="M1668 2912l8 2 9 2 8 4-6-1-8-2-8-2-9 0zM1456 2996l8-10-5 1-9 9z"/><path class="v4" d="M1660 2908l8 4-6 3-8-3zM1464 2986l9-9 8-10-5 3-9 8-8 9z"/><path class="v5" d="M1643 2902l8 3 9 3-6 4-8-2-9-4zM1481 2967l9-12-6 4-8 11z"/><path class="v6" d="M1626 2894l9 5 8 3-6 4-8-2-9-4zM1490 2955l8-13-5 7-9 10z"/><path class="v7" d="M1609 2888l9 3 8 3-6 6-8-2-8-3zM1498 2942l9-14-6 9-8 12z"/><path class="v8" d="M1592 2882l9 3 8 3-5 7-9-2-8-2zM1507 2928l8-15 9-12-6 15-8 10-9 11z"/><path class="v9" d="M1566 2876l9 2 9 2 8 2-5 9-9 0-8 0-9 0zM1524 2901l8-11 9-7-6 17-8 7-9 9z"/><path class="v10" d="M1541 2883l8-5 9-2 8 0-5 15-9 2-8 2-9 5z"/><path class="v1" d="M1723 2923l8-1 8-1 9-1 8 0 8-2 8-3 8-1 8-3 8-2 8-1 8-3 8-3-6-4-8 3-8 3-8 2-8 2-8 3-8 3-8 0-8 2-8 2-8 2-9 1-8 0zM1401 3043l8-5 9-6 9-6-6-3-8 6-9 5-9 5z"/><path class="v2" d="M1699 2920l8 1 8 1 8 1-6-2-8-1-8-1-8 1zM1427 3026l9-6 8-8 9-7-6-1-8 6-9 7-9 6z"/><path class="v3" d="M1682 2916l8 1 9 3-6 0-8-4-9-2zM1453 3005l8-9 9-10-6 0-8 10-9 8z"/><path class="v4" d="M1674 2912l8 4-6-2-8-2zM1470 2986l8-10-5 1-9 9z"/><path class="v5" d="M1657 2901l8 5 9 6-6 0-8-4-9-3zM1478 2976l9-13-6 4-8 10z"/><path class="v6" d="M1640 2892l9 5 8 4-6 4-8-3-8-3zM1487 2963l8-13-5 5-9 12z"/><path class="v7" d="M1632 2888l8 4-5 7-9-5zM1495 2950l9-16-6 8-8 13z"/><path class="v8" d="M1615 2879l8 3 9 6-6 6-8-3-9-3zM1504 2934l8-18-5 12-9 14z"/><path class="v9" d="M1598 2871l8 4 9 4-6 9-8-3-9-3zM1512 2916l8-18-5 15-8 15z"/><path class="v10" d="M1589 2868l9 3-6 11-8-2zM1520 2898l9-16-5 19-9 12z"/><path class="v11" d="M1572 2860l8 4 9 4-5 12-9-2-9-2zM1529 2882l8-13-5 21-8 11z"/><path class="v12" d="M1537 2869l9-9 9-2 8-1 9 3-6 16-8 0-9 2-8 5-9 7z"/><path class="v1" d="M1745 2924l8-1 8-1 9-1 8-2 8-2 8-2 8-2 8-1 8-3 8-2-6-5-8 3-8 3-8 1-8 2-8 3-8 1-8 3-8 2-8 0-9 1zM1406 3045l9-5 9-5 8-6-5-3-9 6-9 6-8 5z"/><path class="v2" d="M1713 2922l8 1 8 1 8 0 8 0-6-3-8 1-8 1-8-1-8-1zM1432 3029l9-6 9-8-6-3-8 8-9 6z"/><path class="v3" d="M1696 2918l8 3 9 1-6-1-8-1-9-3zM1450 3015l8-9 9-10-6 0-8 9-9 7z"/><path class="v4" d="M1679 2910l9 4 8 4-6-1-8-1-8-4zM1467 2996l8-10 9-12-6 2-8 10-9 10z"/><path class="v5" d="M1671 2904l8 6-5 2-9-6zM1484 2974l8-14-5 3-9 13z"/><path class="v6" d="M1663 2897l8 7-6 2-8-5zM1492 2960l9-16-6 6-8 13z"/><path class="v7" d="M1646 2886l8 5 9 6-6 4-8-4-9-5z"/><path class="v8" d="M1637 2879l9 7-6 6-8-4zM1501 2944l8-19-5 9-9 16z"/><path class="v9" d="M1620 2869l9 5 8 5-5 9-9-6-8-3zM1509 2925l8-24-5 15-8 18z"/><path class="v10" d="M1612 2865l8 4-5 10-9-4z"/><path class="v11" d="M1595 2854l8 7 9 4-6 10-8-4-9-3zM1517 2901l9-22-6 19-8 18z"/><path class="v12" d="M1586 2846l9 8-6 14-9-4zM1526 2879l8-19-5 22-9 16z"/><path class="v13" d="M1577 2839l9 7-6 18-8-4zM1534 2860l9-15-6 24-8 13z"/><path class="v14" d="M1543 2845l8-10 9-3 9 2 8 5-5 21-9-3-8 1-9 2-9 9z"/><path class="v1" d="M1751 2926l8-1 8 0 8 0 8-2 9-2 8-1 8-3 8-3 8-1 8-2-6-4-8 2-8 3-8 1-8 2-8 2-8 2-8 2-9 1-8 1-8 1zM1412 3048l8-5 9-5-5-3-9 5-9 5z"/><path class="v2" d="M1727 2923l8 1 8 1 8 1-6-2-8 0-8 0-8-1zM1429 3038l9-6 9-7 8-8-5-2-9 8-9 6-8 6z"/><path class="v3" d="M1710 2920l8 3 9 0-6 0-8-1-9-1zM1455 3017l9-9 8-10-5-2-9 10-8 9z"/><path class="v4" d="M1694 2914l8 3 8 3-6 1-8-3-8-4zM1472 2998l9-11-6-1-8 10z"/><path class="v5" d="M1685 2908l9 6-6 0-9-4zM1481 2987l8-14-5 1-9 12z"/><path class="v6" d="M1677 2901l8 7-6 2-8-6zM1489 2973l9-17-6 4-8 14z"/><path class="v7" d="M1660 2887l9 6 8 8-6 3-8-7-9-6zM1498 2956l8-18-5 6-9 16z"/><path class="v8" d="M1652 2879l8 8-6 4-8-5z"/><path class="v9" d="M1643 2872l9 7-6 7-9-7zM1506 2938l9-25-6 12-8 19z"/><path class="v10" d="M1635 2867l8 5-6 7-8-5z"/><path class="v11" d="M1618 2854l8 6 9 7-6 7-9-5-8-4zM1515 2913l8-27-6 15-8 24z"/><path class="v12" d="M1609 2848l9 6-6 11-9-4z"/><path class="v13" d="M1600 2840l9 8-6 13-8-7zM1523 2886l8-27-5 20-9 22z"/><path class="v14" d="M1592 2829l8 11-5 14-9-8z"/><path class="v15" d="M1583 2818l9 11-6 17-9-7zM1531 2859l8-23-5 24-8 19z"/><path class="v16" d="M1574 2808l9 10-6 21-8-5zM1539 2836l9-18-5 27-9 15z"/><path class="v17" d="M1548 2818l9-10 8-4 9 4-5 26-9-2-9 3-8 10z"/><path class="v1" d="M1765 2928l8 1 8-1 8-1 8-2 8-2 9-3 8-2 8-2 8-2-6-3-8 2-8 1-8 3-8 3-8 1-9 2-8 2-8 0-8 0zM1417 3053l9-7 9-5-6-3-9 5-8 5z"/><path class="v2" d="M1741 2925l8 2 8 1 8 0-6-3-8 1-8-1-8-1zM1435 3041l8-6 9-7 9-8-6-3-8 8-9 7-9 6z"/><path class="v3" d="M1716 2920l8 3 8 1 9 1-6-1-8-1-9 0-8-3zM1461 3020l8-11-5-1-9 9z"/><path class="v4" d="M1708 2917l8 3-6 0-8-3zM1469 3009l9-10 8-12-5 0-9 11-8 10z"/><path class="v5" d="M1699 2911l9 6-6 0-8-3zM1486 2987l9-16-6 2-8 14z"/><path class="v6" d="M1691 2903l8 8-5 3-9-6z"/><path class="v7" d="M1674 2886l9 8 8 9-6 5-8-7-8-8zM1495 2971l8-18-5 3-9 17z"/><path class="v8" d="M1666 2879l8 7-5 7-9-6zM1503 2953l9-23-6 8-8 18z"/><path class="v9" d="M1657 2871l9 8-6 8-8-8z"/><path class="v10" d="M1649 2863l8 8-5 8-9-7zM1512 2930l8-27-5 10-9 25z"/><path class="v11" d="M1640 2858l9 5-6 9-8-5z"/><path class="v12" d="M1623 2845l9 7 8 6-5 9-9-7-8-6zM1520 2903l8-31-5 14-8 27z"/><path class="v13" d="M1615 2837l8 8-5 9-9-6z"/><path class="v15" d="M1606 2825l9 12-6 11-9-8zM1528 2872l8-33-5 20-8 27z"/><path class="v16" d="M1597 2810l9 15-6 15-8-11z"/><path class="v17" d="M1588 2796l9 14-5 19-9-11zM1536 2839l9-26-6 23-8 23z"/><path class="v19" d="M1553 2793l9-12 9-3 8 5 9 13-5 22-9-10-9-4-8 4-9 10z"/><path class="v18" d="M1545 2813l8-20-5 25-9 18z"/><path class="v1" d="M1779 2932l8 0 8-1 8-2 8-3 8-2 8-3 8-1 8-2-5-4-8 2-8 2-8 2-9 3-8 2-8 2-8 1-8 1zM1423 3057l9-6 8-7-5-3-9 5-9 7z"/><path class="v2" d="M1755 2927l8 3 8 0 8 2-6-3-8-1-8 0-8-1zM1440 3044l9-6 9-7 8-8-5-3-9 8-9 7-8 6z"/><path class="v3" d="M1730 2922l8 2 8 1 9 2-6 0-8-2-9-1-8-1zM1466 3023l9-12-6-2-8 11z"/><path class="v4" d="M1722 2919l8 3-6 1-8-3zM1475 3011l9-11-6-1-9 10z"/><path class="v5" d="M1705 2907l9 7 8 5-6 1-8-3-9-6zM1484 3000l8-14-6 1-8 12z"/><path class="v6" d="M1697 2898l8 9-6 4-8-8zM1492 2986l9-16-6 1-9 16z"/><path class="v8" d="M1689 2886l8 12-6 5-8-9z"/><path class="v9" d="M1680 2877l9 9-6 8-9-8zM1509 2951l8-26-5 5-9 23z"/><path class="v10" d="M1663 2861l9 8 8 8-6 9-8-7-9-8z"/><path class="v11" d="M1655 2854l8 7-6 10-8-8zM1517 2925l8-32-5 10-8 27z"/><path class="v12" d="M1646 2848l9 6-6 9-9-5z"/><path class="v13" d="M1638 2843l8 5-6 10-8-6z"/><path class="v14" d="M1629 2836l9 7-6 9-9-7zM1525 2893l9-35-6 14-8 31z"/><path class="v15" d="M1620 2826l9 10-6 9-8-8z"/><path class="v16" d="M1612 2812l8 14-5 11-9-12z"/><path class="v17" d="M1603 2797l9 15-6 13-9-15zM1534 2858l8-35-6 16-8 33z"/><path class="v19" d="M1594 2776l9 21-6 13-9-14zM1542 2823l8-30-5 20-9 26z"/><path class="v21" d="M1585 2762l9 14-6 20-9-13zM1550 2793l9-21-6 21-8 20z"/><path class="v22" d="M1559 2772l8-13 9-3 9 6-6 21-8-5-9 3-9 12z"/><path class="v7" d="M1501 2970l8-19-6 2-8 18z"/><path class="v1" d="M1785 2933l8 0 8 0 8-1 8-2 8-1 8-4 8-2 8-2-6-3-8 2-8 1-8 3-8 2-8 3-8 2-8 1-8 0zM1428 3061l9-5 9-7-6-5-8 7-9 6z"/><path class="v2" d="M1769 2928l8 3 8 2-6-1-8-2-8 0zM1446 3049l9-8 8-8-5-2-9 7-9 6z"/><path class="v3" d="M1752 2923l9 2 8 3-6 2-8-3-9-2zM1463 3033l9-9 9-9-6-4-9 12-8 8z"/><path class="v4" d="M1728 2918l8 3 8 1 8 1-6 2-8-1-8-2-8-3zM1481 3015l8-13-5-2-9 11z"/><path class="v5" d="M1719 2911l9 7-6 1-8-5zM1489 3002l9-15-6-1-8 14z"/><path class="v6" d="M1711 2900l8 11-5 3-9-7zM1498 2987l8-16-5-1-9 16z"/><path class="v7" d="M1703 2889l8 11-6 7-8-9z"/><path class="v9" d="M1694 2874l9 15-6 9-8-12z"/><path class="v10" d="M1686 2861l8 13-5 12-9-9zM1515 2950l8-28-6 3-8 26z"/><path class="v11" d="M1678 2852l8 9-6 16-8-8z"/><path class="v12" d="M1669 2846l9 6-6 17-9-8zM1523 2922l8-37-6 8-8 32z"/><path class="v13" d="M1652 2836l9 5 8 5-6 15-8-7-9-6z"/><path class="v14" d="M1643 2832l9 4-6 12-8-5z"/><path class="v15" d="M1635 2827l8 5-5 11-9-7zM1531 2885l8-38-5 11-9 35z"/><path class="v16" d="M1626 2817l9 10-6 9-9-10z"/><path class="v17" d="M1617 2802l9 15-6 9-8-14z"/><path class="v19" d="M1608 2782l9 20-5 10-9-15z"/><path class="v21" d="M1600 2762l8 20-5 15-9-21z"/><path class="v22" d="M1591 2746l9 16-6 14-9-14zM1556 2780l8-23-5 15-9 21z"/><path class="v23" d="M1582 2739l9 7-6 16-9-6zM1564 2757l9-13-6 15-8 13z"/><path class="v24" d="M1573 2744l9-5-6 17-9 3z"/><path class="v20" d="M1547 2809l9-29-6 13-8 30z"/><path class="v18" d="M1539 2847l8-38-5 14-8 35z"/><path class="v8" d="M1506 2971l9-21-6 1-8 19z"/><path class="v1" d="M1799 2936l8 0 8 0 8-2 8-2 8-2 8-2 8-2-6-5-8 2-8 2-8 4-8 1-8 2-8 1-8 0zM1434 3065l9-6 9-6-6-4-9 7-9 5z"/><path class="v2" d="M1783 2932l8 4 8 0-6-3-8 0-8-2zM1452 3053l8-7 9-9-6-4-8 8-9 8z"/><path class="v3" d="M1767 2920l8 6 8 6-6-1-8-3-8-3zM1469 3037l9-8 8-11-5-3-9 9-9 9z"/><path class="v4" d="M1750 2917l8 0 9 3-6 5-9-2-8-1zM1486 3018l9-12-6-4-8 13z"/><path class="v5" d="M1734 2915l8 3 8-1-6 5-8-1-8-3zM1495 3006l8-15-5-4-9 15z"/><path class="v6" d="M1725 2906l9 9-6 3-9-7zM1503 2991l9-18-6-2-8 16z"/><path class="v7" d="M1717 2892l8 14-6 5-8-11z"/><path class="v9" d="M1709 2874l8 18-6 8-8-11z"/><path class="v11" d="M1700 2854l9 20-6 15-9-15z"/><path class="v12" d="M1692 2837l8 17-6 20-8-13z"/><path class="v14" d="M1675 2822l8 4 9 11-6 24-8-9-9-6z"/><path class="v15" d="M1649 2823l9 0 8-2 9 1-6 24-8-5-9-5-9-4z"/><path class="v16" d="M1641 2819l8 4-6 9-8-5zM1537 2883l8-42-6 6-8 38z"/><path class="v17" d="M1632 2809l9 10-6 8-9-10z"/><path class="v18" d="M1623 2793l9 16-6 8-9-15z"/><path class="v20" d="M1614 2773l9 20-6 9-9-20z"/><path class="v22" d="M1605 2752l9 21-6 9-8-20zM1553 2803l9-31-6 8-9 29z"/><path class="v24" d="M1596 2736l9 16-5 10-9-16zM1570 2749l9-13-6 8-9 13z"/><path class="v25" d="M1579 2736l9-6 8 6-5 10-9-7-9 5z"/><path class="v23" d="M1562 2772l8-23-6 8-8 23z"/><path class="v19" d="M1545 2841l8-38-6 6-8 38z"/><path class="v13" d="M1528 2919l9-36-6 2-8 37z"/><path class="v10" d="M1520 2951l8-32-5 3-8 28z"/><path class="v8" d="M1512 2973l8-22-5-1-9 21z"/><path class="v1" d="M1805 2938l8 2 8-2 8 0 8-2 8-2 8-3 8-1-6-4-8 2-8 2-8 2-8 2-8 2-8 0-8 0zM1440 3070l8-7-5-4-9 6z"/><path class="v2" d="M1789 2931l8 5 8 2-6-2-8 0-8-4zM1448 3063l9-7 9-6 9-8-6-5-9 9-8 7-9 6z"/><path class="v3" d="M1781 2921l8 10-6 1-8-6zM1475 3042l8-9 9-12-6-3-8 11-9 8z"/><path class="v4" d="M1773 2911l8 10-6 5-8-6zM1492 3021l9-12-6-3-9 12z"/><path class="v5" d="M1756 2906l8-1 9 6-6 9-9-3-8 0zM1501 3009l8-15-6-3-8 15z"/><path class="v6" d="M1740 2909l8 1 8-4-6 11-8 1-8-3zM1509 2994l9-18-6-3-9 18z"/><path class="v7" d="M1731 2899l9 10-6 6-9-9z"/><path class="v8" d="M1723 2880l8 19-6 7-8-14zM1518 2976l8-23-6-2-8 22z"/><path class="v11" d="M1715 2855l8 25-6 12-8-18z"/><path class="v13" d="M1706 2827l9 28-6 19-9-20zM1534 2921l8-38-5 0-9 36z"/><path class="v15" d="M1698 2805l8 22-6 27-8-17z"/><path class="v17" d="M1646 2812l9 0 9-8 8-9 9-6 8 4 9 12-6 32-9-11-8-4-9-1-8 2-9 0-8-4z"/><path class="v18" d="M1638 2805l8 7-5 7-9-10z"/><path class="v19" d="M1629 2790l9 15-6 4-9-16z"/><path class="v21" d="M1620 2770l9 20-6 3-9-20z"/><path class="v23" d="M1611 2749l9 21-6 3-9-21z"/><path class="v24" d="M1602 2733l9 16-6 3-9-16zM1567 2770l9-21-6 0-8 23z"/><path class="v25" d="M1576 2749l9-15 8-6 9 5-6 3-8-6-9 6-9 13z"/><path class="v22" d="M1559 2802l8-32-5 2-9 31z"/><path class="v20" d="M1551 2841l8-39-6 1-8 38z"/><path class="v16" d="M1542 2883l9-42-6 0-8 42z"/><path class="v10" d="M1526 2953l8-32-6-2-8 32z"/><path class="v1" d="M1811 2943l8 0 8-1 8-1 8-1 8-2 8-2 8-3-6-3-8 1-8 3-8 2-8 2-8 0-8 2-8-2zM1445 3074l9-5-6-6-8 7z"/><path class="v2" d="M1803 2939l8 4-6-5-8-2zM1454 3069l9-8 9-7 8-8-5-4-9 8-9 6-9 7z"/><path class="v3" d="M1795 2929l8 10-6-3-8-5zM1480 3046l9-9 9-11-6-5-9 12-8 9z"/><path class="v4" d="M1787 2912l8 17-6 2-8-10zM1498 3026l8-12-5-5-9 12z"/><path class="v6" d="M1779 2895l8 17-6 9-8-10zM1515 2999l8-18-5-5-9 18z"/><path class="v7" d="M1746 2902l8-2 8-9 8-5 9 9-6 16-9-6-8 1-8 4-8-1z"/><path class="v8" d="M1737 2890l9 12-6 7-9-10zM1523 2981l9-23-6-5-8 23z"/><path class="v10" d="M1729 2865l8 25-6 9-8-19zM1532 2958l8-31-6-6-8 32z"/><path class="v13" d="M1721 2831l8 34-6 15-8-25zM1540 2927l8-38-6-6-8 38z"/><path class="v16" d="M1712 2793l9 38-6 24-9-28zM1548 2889l9-43-6-5-9 42z"/><path class="v19" d="M1704 2764l8 29-6 34-8-22zM1661 2798l9-16-6 22-9 8zM1635 2792l9 11-6 2-9-15z"/><path class="v20" d="M1695 2750l9 14-6 41-9-12zM1670 2782l8-18-6 31-8 9zM1557 2846l8-40-6-4-8 39z"/><path class="v21" d="M1678 2764l9-13 8-1-6 43-8-4-9 6zM1626 2774l9 18-6-2-9-20z"/><path class="v18" d="M1644 2803l8 3 9-8-6 14-9 0-8-7z"/><path class="v23" d="M1617 2754l9 20-6-4-9-21z"/><path class="v25" d="M1599 2733l9 6 9 15-6-5-9-16-9-5zM1582 2752l9-14-6-4-9 15z"/><path class="v26" d="M1591 2738l8-5-6-5-8 6z"/><path class="v24" d="M1573 2774l9-22-6-3-9 21z"/><path class="v22" d="M1565 2806l8-32-6-4-8 32z"/><path class="v5" d="M1506 3014l9-15-6-5-8 15z"/><path class="v1" d="M1825 2946l8-1 8-1 8 0 8-3 8-2 8-1-6-5-8 3-8 2-8 2-8 1-8 1-8 1zM1451 3079l9-5 9-7-6-6-9 8-9 5z"/><path class="v2" d="M1809 2940l8 5 8 1-6-3-8 0-8-4zM1469 3067l8-8 9-8-6-5-8 8-9 7z"/><path class="v3" d="M1801 2924l8 16-6-1-8-10zM1486 3051l9-10 8-11-5-4-9 11-9 9z"/><path class="v5" d="M1793 2900l8 24-6 5-8-17zM1512 3018l9-15-6-4-9 15z"/><path class="v8" d="M1785 2874l8 26-6 12-8-17zM1752 2893l8-6-6 13-8 2zM1529 2986l9-23-6-5-9 23z"/><path class="v9" d="M1760 2887l8-15 9-9 8 11-6 21-9-9-8 5-8 9zM1743 2880l9 13-6 9-9-12z"/><path class="v11" d="M1735 2849l8 31-6 10-8-25z"/><path class="v15" d="M1727 2805l8 44-6 16-8-34z"/><path class="v19" d="M1718 2759l9 46-6 26-9-38zM1641 2799l9 7 8-2 9-16-6 10-9 8-8-3-9-11zM1562 2857l9-38-6-13-8 40z"/><path class="v22" d="M1710 2722l8 37-6 34-8-29zM1571 2819l8-33-6-12-8 32z"/><path class="v24" d="M1701 2706l9 16-6 42-9-14zM1684 2735l9-23-6 39-9 13zM1614 2750l9 14-6-10-9-15zM1579 2786l9-24-6-10-9 22z"/><path class="v25" d="M1693 2712l8-6-6 44-8 1zM1588 2762l9-13 8-4 9 5-6-11-9-6-8 5-9 14z"/><path class="v23" d="M1675 2763l9-28-6 29-8 18zM1623 2764l9 18-6-8-9-20z"/><path class="v21" d="M1667 2788l8-25-5 19-9 16zM1632 2782l9 17-6-7-9-18z"/><path class="v16" d="M1554 2898l8-41-5-11-9 43z"/><path class="v13" d="M1546 2935l8-37-6-9-8 38z"/><path class="v10" d="M1538 2963l8-28-6-8-8 31z"/><path class="v6" d="M1521 3003l8-17-6-5-8 18z"/><path class="v4" d="M1503 3030l9-12-6-4-8 12z"/><path class="v1" d="M1831 2950l8 0 8-2 8-1 8-1 8-3 8-2-6-3-8 1-8 2-8 3-8 0-8 1-8 1zM1457 3085l9-7 8-8-5-3-9 7-9 5z"/><path class="v2" d="M1815 2940l8 7 8 3-6-4-8-1-8-5zM1474 3070l9-6 9-8-6-5-9 8-8 8z"/><path class="v4" d="M1807 2919l8 21-6 0-8-16zM1509 3036l9-12-6-6-9 12z"/><path class="v7" d="M1799 2885l8 34-6 5-8-24z"/><path class="v10" d="M1791 2850l8 35-6 15-8-26zM1749 2873l9 13 8-13-6 14-8 6-9-13zM1543 2972l9-27-6-10-8 28z"/><path class="v12" d="M1775 2848l8-14 8 16-6 24-8-11-9 9z"/><path class="v11" d="M1766 2873l9-25-7 24-8 15z"/><path class="v13" d="M1741 2838l8 35-6 7-8-31zM1552 2945l8-33-6-14-8 37z"/><path class="v17" d="M1733 2786l8 52-6 11-8-44z"/><path class="v22" d="M1724 2731l9 55-6 19-9-46zM1673 2784l8-32-6 11-8 25zM1629 2781l9 16-6-15-9-18z"/><path class="v25" d="M1716 2691l8 40-6 28-8-37zM1681 2752l9-38-6 21-9 28zM1603 2768l9-4-7-19-8 4z"/><path class="v28" d="M1699 2683l8-10 9 18-6 31-9-16-8 6z"/><path class="v27" d="M1690 2714l9-31-6 29-9 23z"/><path class="v20" d="M1664 2805l9-21-6 4-9 16zM1638 2797l9 13-6-11-9-17z"/><path class="v19" d="M1647 2810l9 3 8-8-6-1-8 2-9-7zM1569 2873l8-36-6-18-9 38z"/><path class="v24" d="M1612 2764l8 4 9 13-6-17-9-14-9-5zM1594 2781l9-13-6-19-9 13z"/><path class="v23" d="M1585 2806l9-25-6-19-9 24z"/><path class="v21" d="M1577 2837l8-31-6-20-8 33z"/><path class="v16" d="M1560 2912l9-39-7-16-8 41z"/><path class="v8" d="M1535 2994l8-22-5-9-9 23z"/><path class="v6" d="M1526 3011l9-17-6-8-8 17z"/><path class="v5" d="M1518 3024l8-13-5-8-9 15z"/><path class="v3" d="M1492 3056l9-10 8-10-6-6-8 11-9 10z"/><path class="v1" d="M1837 2953l8-1 8 0 8-1 8-2 8-2 8-2-6-4-8 2-8 3-8 1-8 1-8 2-8 0zM1463 3089l8-7 9-7-6-5-8 8-9 7z"/><path class="v2" d="M1829 2949l8 4-6-3-8-3zM1480 3075l9-6 9-7-6-6-9 8-9 6z"/><path class="v3" d="M1821 2940l8 9-6-2-8-7zM1498 3062l8-10 9-9-6-7-8 10-9 10z"/><path class="v5" d="M1813 2914l8 26-6 0-8-21zM1524 3030l8-11-6-8-8 13z"/><path class="v8" d="M1805 2870l8 44-6 5-8-34z"/><path class="v12" d="M1797 2826l8 44-6 15-8-35zM1558 2958l8-31-6-15-8 33z"/><path class="v15" d="M1781 2826l8-19 8 19-6 24-8-16-8 14zM1566 2927l9-33-6-21-9 39z"/><path class="v13" d="M1772 2860l9-34-6 22-9 25zM1747 2834l8 37-6 2-8-35z"/><path class="v11" d="M1755 2871l9 10 8-21-6 13-8 13-9-13z"/><path class="v18" d="M1739 2782l8 52-6 4-8-52zM1653 2826l9 0-6-13-9-3z"/><path class="v23" d="M1731 2724l8 58-6 4-9-55zM1600 2806l9-12 9-4 9 3-7-25-8-4-9 4-9 13z"/><path class="v27" d="M1722 2679l9 45-7 7-8-40z"/><path class="v29" d="M1705 2674l8-12 9 17-6 12-9-18-8 10z"/><path class="v28" d="M1696 2710l9-36-6 9-9 31z"/><path class="v25" d="M1687 2751l9-41-6 4-9 38z"/><path class="v22" d="M1679 2789l8-38-6 1-8 32zM1627 2793l8 10-6-22-9-13zM1592 2829l8-23-6-25-9 25z"/><path class="v20" d="M1670 2814l9-25-6-5-9 21zM1644 2815l9 11-6-16-9-13zM1583 2859l9-30-7-23-8 31z"/><path class="v19" d="M1662 2826l8-12-6-9-8 8z"/><path class="v21" d="M1635 2803l9 12-6-18-9-16z"/><path class="v17" d="M1575 2894l8-35-6-22-8 36z"/><path class="v9" d="M1549 2983l9-25-6-13-9 27z"/><path class="v7" d="M1541 3002l8-19-6-11-8 22z"/><path class="v6" d="M1532 3019l9-17-6-8-9 17z"/><path class="v4" d="M1515 3043l9-13-6-6-9 12z"/><path class="v1" d="M1843 2957l8-1 8-1 8 0 8-3 8-1 8-4-6-2-8 2-8 2-8 2-8 1-8 0-8 1zM1468 3092l9-6 9-5-6-6-9 7-8 7z"/><path class="v2" d="M1835 2953l8 4-6-4-8-4zM1486 3081l9-7 8-6-5-6-9 7-9 6z"/><path class="v3" d="M1827 2942l8 11-6-4-8-9zM1503 3068l9-10 9-9-6-6-9 9-8 10z"/><path class="v5" d="M1819 2910l8 32-6-2-8-26zM1530 3038l8-13-6-6-8 11z"/><path class="v10" d="M1811 2856l8 54-6 4-8-44z"/><path class="v14" d="M1804 2806l7 50-6 14-8-44zM1753 2843l8 33-6-5-8-37z"/><path class="v17" d="M1787 2807l9-22 8 21-7 20-8-19-8 19z"/><path class="v15" d="M1778 2851l9-44-6 19-9 34z"/><path class="v12" d="M1770 2880l8-29-6 9-8 21z"/><path class="v11" d="M1761 2876l9 4-6 1-9-10zM1564 2971l8-26-6-18-8 31z"/><path class="v18" d="M1745 2792l8 51-6-9-8-52zM1650 2837l9 8 9-3 8-13-6-15-8 12-9 0-9-11zM1589 2885l9-27-6-29-9 30z"/><path class="v23" d="M1737 2737l8 55-6-10-8-58z"/><path class="v27" d="M1728 2695l9 42-6-13-9-45z"/><path class="v29" d="M1720 2678l8 17-6-16-9-17z"/><path class="v30" d="M1711 2691l9-13-7-16-8 12z"/><path class="v28" d="M1702 2726l9-35-6-17-9 36z"/><path class="v25" d="M1694 2767l8-41-6-16-9 41z"/><path class="v22" d="M1685 2804l9-37-7-16-8 38z"/><path class="v20" d="M1676 2829l9-25-6-15-9 25zM1598 2858l8-21-6-31-8 23z"/><path class="v19" d="M1641 2828l9 9-6-22-9-12z"/><path class="v21" d="M1606 2837l9-14 9-4 9 2 8 7-6-25-8-10-9-3-9 4-9 12z"/><path class="v16" d="M1581 2915l8-30-6-26-8 35z"/><path class="v13" d="M1572 2945l9-30-6-21-9 33z"/><path class="v9" d="M1555 2993l9-22-6-13-9 25z"/><path class="v7" d="M1547 3011l8-18-6-10-8 19z"/><path class="v6" d="M1538 3025l9-14-6-9-9 17z"/><path class="v4" d="M1521 3049l9-11-6-8-9 13z"/><path class="v1" d="M1849 2961l8 1 8-1 8-2 8-3 8-1 8-3-6-5-8 4-8 1-8 3-8 0-8 1-8 1zM1474 3095l9-4 9-5-6-5-9 5-9 6z"/><path class="v2" d="M1841 2956l8 5-6-4-8-4zM1492 3086l8-6 9-7 9-8-6-7-9 10-8 6-9 7z"/><path class="v3" d="M1833 2943l8 13-6-3-8-11zM1518 3065l9-9-6-7-9 9z"/><path class="v6" d="M1825 2908l8 35-6-1-8-32zM1553 3021l8-17-6-11-8 18z"/><path class="v11" d="M1818 2850l7 58-6 2-8-54zM1767 2887l9-3-6-4-9-4z"/><path class="v16" d="M1810 2794l8 56-7 6-7-50zM1784 2847l9-50-6 10-9 44zM1665 2864l9-3-6-19-9 3zM1595 2912l9-23-6-31-9 27z"/><path class="v18" d="M1802 2772l8 22-6 12-8-21zM1682 2849l9-22-6-23-9 25zM1648 2856l8 5-6-24-9-9zM1604 2889l9-20-7-32-8 21z"/><path class="v19" d="M1793 2797l9-25-6 13-9 22zM1613 2869l8-14 9-6 9 1 9 6-7-28-8-7-9-2-9 4-9 14z"/><path class="v13" d="M1776 2884l8-37-6 4-8 29zM1759 2859l8 28-6-11-8-33z"/><path class="v17" d="M1751 2816l8 43-6-16-8-51zM1674 2861l8-12-6-20-8 13zM1656 2861l9 3-6-19-9-8z"/><path class="v22" d="M1743 2768l8 48-6-24-8-55z"/><path class="v26" d="M1734 2732l9 36-6-31-9-42z"/><path class="v28" d="M1717 2729l9-12 8 15-6-37-8-17-9 13z"/><path class="v27" d="M1708 2757l9-28-6-38-9 35z"/><path class="v24" d="M1700 2795l8-38-6-31-8 41z"/><path class="v21" d="M1691 2827l9-32-6-28-9 37z"/><path class="v14" d="M1587 2938l8-26-6-27-8 30z"/><path class="v12" d="M1578 2964l9-26-6-23-9 30z"/><path class="v10" d="M1570 2986l8-22-6-19-8 26z"/><path class="v8" d="M1561 3004l9-18-6-15-9 22z"/><path class="v5" d="M1544 3033l9-12-6-10-9 14z"/><path class="v4" d="M1527 3056l8-11 9-12-6-8-8 13-9 11z"/><path class="v1" d="M1855 2964l8 1 8-1 8-2 8-2 8-1 8-4-6-3-8 3-8 1-8 3-8 2-8 1-8-1zM1480 3101l9-5 8-5 9-4-6-7-8 6-9 5-9 4z"/><path class="v2" d="M1847 2960l8 4-6-3-8-5zM1506 3087l9-8 9-7-6-7-9 8-9 7z"/><path class="v3" d="M1839 2946l8 14-6-4-8-13zM1524 3072l9-10 8-10-6-7-8 11-9 9z"/><path class="v6" d="M1831 2910l8 36-6-3-8-35zM1559 3031l8-15-6-12-8 17z"/><path class="v11" d="M1824 2851l7 59-6-2-7-58z"/><path class="v16" d="M1816 2794l8 57-6-1-8-56zM1757 2848l8 34-6-23-8-43zM1680 2881l8-9-6-23-8 12zM1645 2881l9 1 8 2-6-23-8-5-9-6zM1619 2902l9-12-7-35-8 14z"/><path class="v19" d="M1799 2798l9-26 8 22-6 0-8-22-9 25zM1749 2812l8 36-6-32-8-48zM1697 2854l9-25-6-34-9 32z"/><path class="v17" d="M1791 2851l8-53-6-1-9 50zM1688 2872l9-18-6-27-9 22zM1628 2890l8-8 9-1-6-31-9-1-9 6z"/><path class="v13" d="M1782 2893l9-42-7-4-8 37z"/><path class="v10" d="M1773 2902l9-9-6-9-9 3zM1584 2980l9-21-6-21-9 26z"/><path class="v12" d="M1765 2882l8 20-6-15-8-28zM1593 2959l9-20-7-27-8 26z"/><path class="v23" d="M1740 2784l9 28-6-44-9-36z"/><path class="v25" d="M1723 2781l9-9 8 12-6-52-8-15-9 12z"/><path class="v24" d="M1714 2802l9-21-6-52-9 28z"/><path class="v22" d="M1706 2829l8-27-6-45-8 38z"/><path class="v15" d="M1662 2884l9 1 9-4-6-20-9 3-9-3zM1610 2918l9-16-6-33-9 20z"/><path class="v14" d="M1602 2939l8-21-6-29-9 23z"/><path class="v9" d="M1576 3000l8-20-6-16-8 22z"/><path class="v7" d="M1567 3016l9-16-6-14-9 18z"/><path class="v5" d="M1550 3042l9-11-6-10-9 12z"/><path class="v4" d="M1541 3052l9-10-6-9-9 12z"/><path class="v1" d="M1861 2969l8 0 8-1 8-2 8-2 8-2 9-3-7-4-8 4-8 1-8 2-8 2-8 1-8-1zM1485 3106l9-4 9-6 9-5-6-4-9 4-8 5-9 5z"/><path class="v2" d="M1853 2965l8 4-6-5-8-4zM1512 3091l9-7 9-6 8-8-5-8-9 10-9 7-9 8z"/><path class="v3" d="M1845 2951l8 14-6-5-8-14zM1538 3070l9-9-6-9-8 10z"/><path class="v6" d="M1837 2918l8 33-6-5-8-36zM1573 3026l9-13-6-13-9 16z"/><path class="v11" d="M1830 2861l7 57-6-8-7-59zM1771 2907l8 11-6-16-8-20z"/><path class="v16" d="M1822 2805l8 56-6-10-8-57zM1797 2864l8-53-6-13-8 53zM1754 2858l9 26-6-36-8-36z"/><path class="v19" d="M1805 2811l9-27 8 21-6-11-8-22-9 26zM1746 2839l8 19-5-46-9-28z"/><path class="v12" d="M1788 2905l9-41-6-13-9 42zM1608 2963l8-18-6-27-8 21z"/><path class="v10" d="M1779 2918l9-13-6-12-9 9zM1599 2980l9-17-6-24-9 20z"/><path class="v13" d="M1763 2884l8 23-6-25-8-34zM1616 2945l9-14-6-29-9 16z"/><path class="v20" d="M1737 2829l9 10-6-55-8-12zM1720 2848l9-14-6-53-9 21z"/><path class="v21" d="M1729 2834l8-5-5-57-9 9z"/><path class="v18" d="M1712 2865l8-17-6-46-8 27z"/><path class="v17" d="M1703 2883l9-18-6-36-9 25z"/><path class="v15" d="M1694 2896l9-13-6-29-9 18zM1642 2913l9-5-6-27-9 1z"/><path class="v14" d="M1651 2908l9 0 9 0 8-1 9-4 8-7-6-24-8 9-9 4-9-1-8-2-9-1zM1625 2931l9-11 8-7-6-31-8 8-9 12z"/><path class="v9" d="M1590 2997l9-17-6-21-9 21z"/><path class="v8" d="M1582 3013l8-16-6-17-8 20z"/><path class="v5" d="M1565 3038l8-12-6-10-8 15z"/><path class="v4" d="M1547 3061l9-12 9-11-6-7-9 11-9 10z"/><path class="v1" d="M1867 2974l8-1 8-1 8-2 8-2 9-3 8-3-6-3-9 3-8 2-8 2-8 2-8 1-8 0zM1491 3112l9-5 9-4 9-7-6-5-9 5-9 6-9 4z"/><path class="v2" d="M1859 2970l8 4-6-5-8-4zM1518 3096l9-5 9-7 8-7-6-7-8 8-9 6-9 7z"/><path class="v3" d="M1851 2958l8 12-6-5-8-14zM1544 3077l9-9 9-10-6-9-9 12-9 9z"/><path class="v6" d="M1843 2928l8 30-6-7-8-33zM1579 3037l9-12-6-12-9 13z"/><path class="v10" d="M1836 2877l7 51-6-10-7-57zM1614 2985l8-15-6-25-8 18z"/><path class="v15" d="M1828 2827l8 50-6-16-8-56zM1802 2881l9-48-6-22-8 53zM1752 2886l8 13-6-41-8-19zM1718 2900l8-11-6-41-8 17z"/><path class="v18" d="M1811 2833l9-24 8 18-6-22-8-21-9 27z"/><path class="v12" d="M1794 2920l8-39-5-17-9 41zM1631 2957l9-11 9-7 8-5 9-3 9-3 8-1 9-4 8-5-6-22-8 7-9 4-8 1-9 0-9 0-9 5-8 7-9 11z"/><path class="v9" d="M1777 2932l8 4 9-16-6-15-9 13-8-11zM1605 2998l9-13-6-22-9 17z"/><path class="v11" d="M1769 2917l8 15-6-25-8-23zM1622 2970l9-13-6-26-9 14z"/><path class="v13" d="M1760 2899l9 18-6-33-9-26zM1700 2918l9-8-6-27-9 13z"/><path class="v16" d="M1726 2889l9-8 8-2 9 7-6-47-9-10-8 5-9 14z"/><path class="v14" d="M1709 2910l9-10-6-35-9 18z"/><path class="v8" d="M1597 3012l8-14-6-18-9 17z"/><path class="v7" d="M1588 3025l9-13-7-15-8 16z"/><path class="v5" d="M1570 3047l9-10-6-11-8 12z"/><path class="v4" d="M1562 3058l8-11-5-9-9 11z"/><path class="v1" d="M1873 2976l8 1 8-2 9-1 8-3 8-2 8-2-6-5-8 3-9 3-8 2-8 2-8 1-8 1zM1497 3117l9-5 9-5 9-5 9-5-6-6-9 5-9 7-9 4-9 5z"/><path class="v2" d="M1865 2975l8 1-6-2-8-4zM1533 3097l8-6 9-7 9-9-6-7-9 9-8 7-9 7z"/><path class="v3" d="M1857 2965l8 10-6-5-8-12zM1559 3075l9-9-6-8-9 10z"/><path class="v5" d="M1849 2940l8 25-6-7-8-30zM1585 3047l9-9-6-13-9 12z"/><path class="v9" d="M1842 2899l7 41-6-12-7-51zM1774 2943l9 8-6-19-8-15zM1629 2991l8-12-6-22-9 13z"/><path class="v14" d="M1834 2858l8 41-6-22-8-50zM1808 2904l9-40-6-31-9 48z"/><path class="v16" d="M1817 2864l9-20 8 14-6-31-8-18-9 24z"/><path class="v10" d="M1800 2939l8-35-6-23-8 39zM1766 2933l8 10-5-26-9-18zM1637 2979l9-9 9-9-6-22-9 7-9 11z"/><path class="v8" d="M1791 2953l9-14-6-19-9 16zM1620 3004l9-13-7-21-8 15z"/><path class="v7" d="M1783 2951l8 2-6-17-8-4zM1603 3026l8-10 9-12-6-19-9 13-8 14z"/><path class="v11" d="M1758 2923l8 10-6-34-8-13zM1655 2961l8-5 9-4 9-4 8-2 9-3 8-4 9-5-6-24-9 8-8 5-9 4-8 1-9 3-9 3-8 5z"/><path class="v12" d="M1749 2918l9 5-6-37-9-7zM1715 2934l9-5 8-7-6-33-8 11-9 10z"/><path class="v13" d="M1732 2922l9-4 8 0-6-39-8 2-9 8z"/><path class="v6" d="M1594 3038l9-12-6-14-9 13z"/><path class="v4" d="M1568 3066l8-9 9-10-6-10-9 10-8 11z"/><path class="v1" d="M1879 2980l8 0 9-1 8-1 8-4 8-2 8-2-6-3-8 2-8 2-8 3-9 1-8 2-8-1zM1503 3120l9-3 9-4 9-5 8-6-5-5-9 5-9 5-9 5-9 5z"/><path class="v2" d="M1871 2980l8 0-6-4-8-1zM1538 3102l9-4 9-8 9-7-6-8-9 9-9 7-8 6z"/><path class="v3" d="M1863 2974l8 6-6-5-8-10zM1565 3083l9-7 8-10-6-9-8 9-9 9z"/><path class="v5" d="M1855 2955l8 19-6-9-8-25zM1600 3048l9-8-6-14-9 12z"/><path class="v8" d="M1848 2924l7 31-6-15-7-41zM1772 2957l8 6-6-20-8-10zM1635 3008l8-9 9-8-6-21-9 9-8 12z"/><path class="v12" d="M1840 2892l8 32-6-25-8-41zM1814 2929l9-32-6-33-9 40z"/><path class="v13" d="M1823 2897l9-15 8 10-6-34-8-14-9 20z"/><path class="v9" d="M1806 2955l8-26-6-25-8 35zM1764 2952l8 5-6-24-8-10zM1652 2991l9-9 8-6 9-4 9-4 8-3 9-4 9-2-7-20-8 4-9 3-8 2-9 4-9 4-8 5-9 9z"/><path class="v7" d="M1797 2967l9-12-6-16-9 14zM1780 2963l9 5-6-17-9-8zM1626 3019l9-11-6-17-9 13z"/><path class="v6" d="M1789 2968l8-1-6-14-8-2zM1609 3040l8-11 9-10-6-15-9 12-8 10z"/><path class="v10" d="M1713 2959l8-4 9-3 8-4 9-1 8 1 9 4-6-29-9-5-8 0-9 4-8 7-9 5-9 5z"/><path class="v4" d="M1582 3066l9-10 9-8-6-10-9 9-9 10z"/><path class="v1" d="M1885 2986l9-1 8-1 8-2 8-3 8-3 8-2-6-4-8 2-8 2-8 4-8 1-9 1-8 0zM1509 3127l9-4 9-4 9-5 8-5 9-6-6-5-9 4-8 6-9 5-9 4-9 3z"/><path class="v2" d="M1869 2981l8 5 8 0-6-6-8 0-8-6zM1553 3103l9-6 9-7 9-7-6-7-9 7-9 7-9 8z"/><path class="v4" d="M1861 2968l8 13-6-7-8-19zM1597 3066l9-8 9-8-6-10-9 8-9 8z"/><path class="v6" d="M1853 2947l8 21-6-13-7-31zM1803 2980l9-9-6-16-9 12zM1778 2975l8 4 9 1-6-12-9-5-8-6zM1632 3032l9-8-6-16-9 11z"/><path class="v9" d="M1845 2924l8 23-5-23-8-32zM1820 2952l9-22-6-33-9 32z"/><path class="v11" d="M1829 2930l8-12 8 6-5-32-8-10-9 15z"/><path class="v7" d="M1812 2971l8-19-6-23-8 26zM1770 2971l8 4-6-18-8-5zM1641 3024l8-9 9-9-6-15-9 8-8 9z"/><path class="v5" d="M1795 2980l8 0-6-13-8 1zM1615 3050l8-9 9-9-6-13-9 10-8 11z"/><path class="v8" d="M1658 3006l9-6 8-7 9-5 9-4 8-4 9-3 9-2 8-2 9-3 8-3 9 0 8 2 9 2-6-19-9-4-8-1-9 1-8 4-9 3-8 4-9 2-9 4-8 3-9 4-9 4-8 6-9 9z"/><path class="v3" d="M1580 3083l8-9 9-8-6-10-9 10-8 10z"/><path class="v1" d="M1883 2991l9 0 8-1 8-1 8-2 8-3 8-2 8-3-6-5-8 2-8 3-8 3-8 2-8 1-9 1-8 0zM1515 3132l9-4 9-4 8-3 9-6 9-5 9-7-6-6-9 6-9 6-8 5-9 5-9 4-9 4z"/><path class="v2" d="M1875 2988l8 3-6-5-8-5zM1568 3103l9-7 9-6-6-7-9 7-9 7z"/><path class="v3" d="M1867 2981l8 7-6-7-8-13zM1586 3090l8-8 9-7 9-7-6-10-9 8-9 8-8 9z"/><path class="v5" d="M1859 2966l8 15-6-13-8-21zM1809 2990l9-4-6-15-9 9zM1784 2989l8 1 9 1-6-11-9-1-8-4zM1629 3053l9-8 9-7-6-14-9 8-9 9z"/><path class="v7" d="M1851 2953l8 13-6-19-8-23zM1826 2972l9-16-6-26-9 22zM1673 3015l8-6 9-6 9-4 8-4 9-3 9-4 8-1 9-2 8-2 9 1 8 1-6-16-8-2-9 0-8 3-9 3-8 2-9 2-9 3-8 4-9 4-9 5-8 7z"/><path class="v8" d="M1835 2956l8-7 8 4-6-29-8-6-8 12z"/><path class="v6" d="M1818 2986l8-14-6-20-8 19zM1767 2985l9 1 8 3-6-14-8-4-9-2zM1647 3038l8-9 9-7 9-7-6-15-9 6-9 9-8 9z"/><path class="v4" d="M1801 2991l8-1-6-10-8 0zM1612 3068l9-8 8-7-6-12-8 9-9 8z"/><path class="v1" d="M1890 2996l8 1 8-2 8-2 8-2 8-2 8-2 8-3-6-5-8 3-8 2-8 3-8 2-8 1-8 1-9 0zM1521 3138l9-4 8-5 9-4 9-6 9-3 9-6-6-7-9 7-9 5-9 6-8 3-9 4-9 4z"/><path class="v2" d="M1881 2995l9 1-7-5-8-3zM1574 3110l9-7 9-6 8-7-6-8-8 8-9 6-9 7z"/><path class="v3" d="M1873 2991l8 4-6-7-8-7zM1600 3090l9-7 9-6 9-8-6-9-9 8-9 7-9 7z"/><path class="v4" d="M1865 2984l8 7-6-10-8-15zM1799 3000l8 1 8-1 9-4-6-10-9 4-8 1-9-1zM1627 3069l8-6 9-7 9-8-6-10-9 7-9 8-8 7z"/><path class="v5" d="M1857 2977l8 7-6-18-8-13zM1824 2996l8-8 9-9-6-23-9 16-8 14zM1773 2997l9 1 8 1 9 1-7-10-8-1-8-3-9-1zM1653 3048l8-7 9-7-6-12-9 7-8 9z"/><path class="v6" d="M1841 2979l8-6 8 4-6-24-8-4-8 7zM1670 3034l9-7 9-6 8-4 9-4 8-4 9-3 9-4 8-3 9-1 8 0 9 0 8-1-6-12-8-1-9-1-8 2-9 2-8 1-9 4-9 3-8 4-9 4-9 6-8 6-9 7z"/><path class="v1" d="M1896 3002l8-1 8 0 8-3 8-2 8-2 9-2 8-2-7-6-8 3-8 2-8 2-8 2-8 2-8 2-8-1zM1535 3140l9-4 9-5 9-5 9-5 9-6 9-6-6-6-9 7-9 6-9 3-9 6-9 4-8 5z"/><path class="v2" d="M1879 2999l9 2 8 1-6-6-9-1-8-4zM1589 3109l9-5 8-8 9-4-6-9-9 7-8 7-9 6z"/><path class="v3" d="M1871 2997l8 2-6-8-8-7zM1813 3009l8-1 9-3-6-9-9 4-8 1zM1615 3092l9-6 9-8 8-5-6-10-8 6-9 8-9 6z"/><path class="v4" d="M1830 3005l8-3 8-6 9-5 8 2 8 4-6-13-8-7-8-4-8 6-9 9-8 8zM1788 3007l8 0 9 1 8 1-6-8-8-1-9-1-8-1zM1641 3073l9-6 9-8 9-6-7-12-8 7-9 8-9 7z"/><path class="v5" d="M1754 3010l8-1 9-1 8 0 9-1-6-9-9-1-8 1-9 0-8 0zM1668 3053l8-8 9-6 9-5 8-4 9-4-6-13-9 4-8 4-9 6-9 7-9 7z"/><path class="v6" d="M1711 3026l9-5 8-3 9-3 8-2 9-3-6-12-9 1-8 3-9 4-9 3-8 4z"/><path class="v0" d="M1527 3144l8-4-5-6-9 4z"/><path class="v1" d="M1894 3008l8 0 8-2 8-2 8-2 9-2 8-2 8-3 8-2-6-3-8 2-9 2-8 2-8 2-8 3-8 0-8 1-8-1zM1550 3140l9-5 9-4 9-5 9-5 9-6-6-6-9 6-9 6-9 5-9 5-9 5z"/><path class="v2" d="M1877 3008l9 0 8 0-6-7-9-2-8-2zM1595 3115l9-5 8-6 9-5 9-6-6-7-9 6-9 4-8 8-9 5z"/><path class="v3" d="M1811 3016l8 0 8-1 9-1 8-2 9-4 8-3 8 0 8 3-6-11-8-4-8-2-9 5-8 6-8 3-9 3-8 1-8-1zM1630 3093l9-5 8-5 9-7 9-6-6-11-9 8-9 6-8 5-9 8z"/><path class="v4" d="M1777 3017l8 0 9 1 8-1 9-1-6-8-9-1-8 0-9 1-8 0zM1665 3070l9-6 8-7 9-5 9-6-6-12-9 5-9 6-8 8-9 6z"/><path class="v5" d="M1700 3046l8-4 9-4 9-5 8-3 9-2 8-2 9-5 8-2 9-2-6-9-9 1-8 1-9 3-8 2-9 3-8 3-9 5-9 4-8 4z"/><path class="v0" d="M1532 3149l9-5 9-4-6-4-9 4-8 4z"/><path class="v1" d="M1892 3015l8-1 8-2 8-2 8-1 9-2 8-2 8-3 8-2 8-1-6-6-8 2-8 3-8 2-9 2-8 2-8 2-8 2-8 0-8 0zM1556 3145l9-4 9-5 9-5 9-4 9-5 9-5-6-7-9 5-9 6-9 5-9 5-9 4-9 5z"/><path class="v2" d="M1867 3016l8 0 8 0 9-1-6-7-9 0-8-3-8 0zM1610 3117l8-6 9-5 9-5 9-6 9-5-7-7-8 5-9 5-9 6-9 5-8 6z"/><path class="v3" d="M1800 3026l8-1 9 0 8-1 9-2 8-1 8-2 9-1 8-2-6-11-8 3-9 4-8 2-9 1-8 1-8 0-9 1-8 1zM1654 3090l8-5 9-6 9-5 8-5-6-12-8 7-9 6-9 6-9 7z"/><path class="v4" d="M1688 3069l9-7 9-4 8-6 9-4 9-3 8-4 9-2 8-3 9-4 9-2 8-3 9 0 8-1-6-8-9-1-8 0-9 2-8 2-9 5-8 2-9 2-8 3-9 5-9 4-8 4-9 6-9 5z"/><path class="v0" d="M1538 3153l9-4 9-4-6-5-9 4-9 5z"/><path class="v1" d="M1890 3021l8 0 8-2 8-2 8-2 9-1 8-2 8-3 8-3 8-2 8-2-6-3-8 1-8 2-8 3-8 2-9 2-8 1-8 2-8 2-8 1-9 1zM1562 3150l9-5 9-4 9-4 9-6 9-4 9-4 8-5-6-7-8 6-9 5-9 5-9 4-9 5-9 5-9 4z"/><path class="v2" d="M1840 3029l8 0 8-2 9-2 8-1 8-2 9-1-7-5-8 0-8 0-8 2-9 1-8 2-8 1zM1624 3118l9-5 9-5 9-5 9-4 8-5 9-6-6-9-9 6-8 5-9 5-9 6-9 5-9 5z"/><path class="v3" d="M1798 3035l8-1 9-2 8 0 8-2 9-1-6-7-9 2-8 1-9 0-8 1-8 1zM1677 3088l9-6 8-4 9-7 9-5 9-3-7-11-8 6-9 4-9 7-8 5-9 5z"/><path class="v4" d="M1721 3063l8-4 9-5 8-3 9-3 9-3 8-3 9-2 8-4 9-1-6-8-9 0-8 3-9 2-9 4-8 3-9 2-8 4-9 3-9 4z"/><path class="v0" d="M1544 3157l9-3 9-4-6-5-9 4-9 4z"/><path class="v1" d="M1896 3028l8-1 8-2 8-2 9-3 8-2 8-1 8-3 8-3 8-2 9-3-7-4-8 2-8 2-8 3-8 3-8 2-9 1-8 2-8 2-8 2-8 0zM1568 3155l9-5 9-4 9-6 9-3 9-4 9-4 8-6 9-4-6-6-9 5-8 5-9 4-9 4-9 6-9 4-9 4-9 5z"/><path class="v2" d="M1838 3037l8 0 8-2 9-2 8 0 8-2 9-1 8-2-6-7-9 1-8 2-8 1-9 2-8 2-8 0-9 1zM1639 3119l9-4 9-5 9-4 8-5 9-5 9-5 9-5-7-8-8 4-9 6-9 6-8 5-9 4-9 5-9 5z"/><path class="v3" d="M1701 3086l8-3 9-6 9-5 8-4 9-4 9-4 8-3 9-3 8-4 9-3 8-3 9-1 8-2 9-1 8 0 9-3-7-7-8 2-8 0-9 2-8 1-9 1-8 4-9 2-8 3-9 3-9 3-8 3-9 5-8 4-9 3-9 5-9 7z"/><path class="v0" d="M1550 3161l9-3 9-3-6-5-9 4-9 3z"/><path class="v1" d="M1885 3036l9-2 8 0 8-2 9-2 8-2 8-2 8-3 8-2 9-3 8-3 8-2 8-2-6-5-9 3-8 2-8 3-8 3-8 1-8 2-9 3-8 2-8 2-8 1-8 2-9 1zM1574 3159l9-5 9-4 9-4 9-3 9-7 9-2 9-5 8-5 9-3 9-4-6-7-9 5-9 4-9 4-8 6-9 4-9 4-9 3-9 6-9 4-9 5z"/><path class="v2" d="M1827 3046l8-2 9-1 8-1 8 0 9-2 8-1 8-3-6-5-8 2-8 0-9 2-8 2-8 0-9 3-8 0zM1663 3117l9-4 9-4 8-5 9-5 9-5 8-4 9-6-6-7-9 6-8 3-9 5-9 5-9 5-8 5-9 4z"/><path class="v3" d="M1724 3084l9-5 8-2 9-4 9-5 8-3 9-3 8-3 9-4 8-2 9-3 8-2 9-2-6-6-9 1-8 2-9 1-8 3-9 3-8 4-9 3-8 3-9 4-9 4-8 4-9 5z"/><path class="v0" d="M1556 3167l9-4 9-4-6-4-9 3-9 3z"/><path class="v1" d="M1883 3043l9-2 8 0 8-2 9-3 8-2 8-1 8-2 8-3 9-3 8-2 8-2 8-4 8-2-6-4-8 2-8 2-8 3-9 3-8 2-8 3-8 2-8 2-9 2-8 2-8 0-9 2-8 3zM1580 3164l9-4 9-5 9-3 9-4 9-5 9-3 9-4 8-5 9-4 9-4 9-4 9-4-6-6-9 4-9 4-9 4-9 3-8 5-9 5-9 2-9 7-9 3-9 4-9 4-9 5z"/><path class="v2" d="M1808 3060l8-2 9-2 8-3 9-2 8-1 8-2 9-2 8-1 8-2-6-4-8 1-9 2-8 0-8 1-9 1-8 2-9 2-8 2-9 3zM1773 3074l9-4-6-8-9 3zM1687 3115l8-6 9-4 9-4 9-3 8-4 9-5 9-4 8-5 9-4-6-8-9 5-9 4-8 2-9 5-9 6-8 4-9 5-9 5-8 5z"/><path class="v3" d="M1782 3070l9-4 8-3 9-3-7-7-8 2-9 4-8 3zM1765 3076l8-2-6-9-8 3z"/><path class="v0" d="M1562 3171l9-3 9-4-6-5-9 4-9 4z"/><path class="v1" d="M1890 3048l8 0 8-3 9-1 8-2 8-2 8-2 9-2 8-4 8-1 8-2 8-3 8-3 9-3-7-5-8 2-8 4-8 2-8 2-9 3-8 3-8 2-8 1-8 2-9 3-8 2-8 0-9 2zM1595 3166l9-6 9-3 9-4 9-4 9-4 9-3 9-5 8-5 9-4 9-3 9-4 9-5-7-7-8 6-9 4-9 4-9 4-9 4-8 5-9 4-9 3-9 5-9 4-9 3-9 5z"/><path class="v2" d="M1702 3116l8-4 9-4 9-3 8-4 9-5 9-4 8-4 9-4 9-3 8-4 9-3 8-3 9-3 8-3 9-2 8-2 9-3 8-1 9-2 8-3 8-3 9-1-7-5-8 2-8 1-9 2-8 2-8 1-9 2-8 3-9 2-8 2-9 3-8 3-9 4-9 4-8 2-9 4-8 5-9 4-9 5-8 4-9 3-9 4-9 4z"/><path class="v0" d="M1568 3177l9-4 9-4 9-3-6-6-9 4-9 4-9 3z"/><path class="v0" d="M1970 3035l8-1 9-3 8-2 8-4-6-5-9 3-8 3-8 3-8 2zM1574 3181l9-3 9-3 9-3 9-4-6-8-9 6-9 3-9 4-9 4z"/><path class="v1" d="M1879 3059l9-2 8-4 8 0 9-1 8-3 8-2 8-2 9-2 8-2 8-4 8-2-6-4-8 1-8 4-9 2-8 2-8 2-8 2-9 1-8 3-8 0-9 1-8 3zM1610 3168l9-4 9-5 9-4 9-5 9-3 9-5 8-4 9-4 9-4 9-5 9-3 8-3 9-4 9-4-6-6-9 3-9 4-8 4-9 5-9 4-9 3-9 4-8 5-9 5-9 3-9 4-9 4-9 4-9 3z"/><path class="v2" d="M1734 3111l9-4 8-4 9-5 9-4 8-3 9-2 8-3 9-4 8-4 9-3 9-3 8-2 8-2 9-3 8-2 9-3 8-1-6-7-8 3-9 2-8 1-9 3-8 2-9 2-8 3-9 3-8 3-9 3-8 4-9 3-9 4-8 4-9 4-9 5-8 4z"/><path class="v0" d="M1977 3040l8-2 8-3 8-2 8-3-6-5-8 4-8 2-9 3-8 1zM1580 3186l9-3 9-4 9-2 9-5 9-5-6-3-9 4-9 4-9 3-9 3-9 3z"/><path class="v1" d="M1869 3069l8-3 8-1 9-3 8-2 9-2 8-2 8-2 8-2 9-3 8-1 8-4 8-2 9-2-7-5-8 2-8 4-8 2-9 2-8 2-8 2-8 3-9 1-8 0-8 4-9 2-8 1-9 3zM1625 3167l9-2 9-4 9-6 9-3 9-5 9-4 8-3 9-5 9-4 9-2 9-3 8-5 9-5 9-3 8-4-6-6-8 4-9 4-9 4-9 4-8 3-9 3-9 5-9 4-9 4-8 4-9 5-9 3-9 5-9 4-9 5z"/><path class="v2" d="M1757 3109l9-3 9-4 8-4 9-4 9-3 8-3 9-3 8-3 9-3 8-2 9-2 8-3 9-3-7-6-8 2-9 3-8 2-8 2-9 3-9 3-8 4-9 4-8 3-9 2-8 3-9 4-9 5z"/><path class="v0" d="M1983 3045l8-2 8-4 8-2 9-3-7-4-8 3-8 2-8 3-8 2zM1586 3191l10-3 9-3 9-4 9-4 8-4 9-4 9-2-6-6-9 4-9 2-9 5-9 5-9 2-9 4-9 3z"/><path class="v1" d="M1841 3085l9-1 8-4 8-3 9-1 8-2 9-2 8-4 8-3 9-1 8-2 8-2 9-2 8-4 8-2 9-3 8-3 8-1-6-5-9 2-8 2-8 4-8 1-9 3-8 2-8 2-8 2-9 2-8 2-9 3-8 1-8 3-9 3-8 3-9 2-8 2zM1649 3167l9-6 9-4 9-5 9-4 9-2 8-5 9-4 9-3 9-3 9-4 8-5 9-3 9-4 8-3 9-4 9-4-7-6-8 4-9 4-9 3-8 4-9 3-9 5-8 5-9 3-9 2-9 4-9 5-8 3-9 4-9 5-9 3-9 6z"/><path class="v2" d="M1790 3104l8-4 9-3 8-2 9-3 8-3 9-4-6-6-9 3-8 3-9 3-8 3-9 3-9 4z"/><path class="v0" d="M1989 3048l8 0 9-4 8-3 8-2-6-5-9 3-8 2-8 4-8 2zM1593 3196l9-4 9-3 9-3 9-4 9-3 9-4 8-4-6-4-9 2-9 4-8 4-9 4-9 4-9 3-10 3z"/><path class="v1" d="M1655 3171l9-4 9-5 9-4 9-4 9-4 9-3 8-4 9-4 9-3 9-3 8-4 9-3 9-4 9-4 8-4 9-5 8-3 9-3 9-4 8-2 9-2 8-5 9-1 8-3 9-2 8-3 9-3 8-1 8-3 9-3 8-2 8-1 9-3 8-4 8-2 9-2 8-3 8-3 8-3-6-3-8 1-8 3-9 3-8 2-8 4-9 2-8 2-8 2-9 1-8 3-8 4-9 2-8 2-9 1-8 3-8 4-9 1-9 4-8 3-9 3-8 2-9 3-8 4-9 4-9 4-8 3-9 4-9 3-8 5-9 4-9 3-9 3-9 4-8 5-9 2-9 4-9 5-9 4-9 6z"/><path class="v0" d="M1996 3052l8-2 8-3 8-1 8-3-6-4-8 2-8 3-9 4-8 0zM1599 3200l9-3 9-4 9-3 9-3 9-4 9-3 9-4 9-4-7-5-9 4-8 4-9 4-9 3-9 4-9 3-9 3-9 4z"/><path class="v1" d="M1671 3172l8-5 9-4 9-3 9-4 9-3 9-4 8-4 9-3 9-3 9-4 8-4 9-4 9-3 8-5 9-3 9-4 8-3 9-3 9-2 8-4 9-3 8-2 9-2 8-4 9-3 8-2 8-3 9-2 8-2 8-2 9-2 8-3 8-2 9-3 8-4 8-3 9-3 8-3-7-4-8 3-8 3-8 3-9 2-8 2-8 4-9 3-8 1-8 2-9 3-8 3-8 1-9 3-8 3-9 2-8 3-9 1-8 5-9 2-8 2-9 4-9 3-8 3-9 5-8 4-9 4-9 4-9 3-8 4-9 3-9 3-9 4-8 4-9 3-9 4-9 4-9 4-9 5z"/><path class="v0" d="M2019 3050l8-1 8-2-7-4-8 3-8 1zM1605 3205l9-3 9-4 9-3 9-4 9-3 9-3 9-5 9-3-6-5-9 4-9 4-9 3-9 4-9 3-9 3-9 4-9 3z"/><path class="v1" d="M1677 3177l9-4 9-4 8-3 9-5 9-4 9-3 9-4 8-2 9-3 9-4 9-4 8-4 9-4 9-3 8-4 9-4 9-3 8-3 9-2 8-3 9-3 8-3 9-3 8-3 9-4 8-1 9-3 8-3 8-2 9-2 8-3 9-2 8-3 8-3 8-3 9-4 8-3 8-3 8-2 9-4-7-3-8 3-8 2-8 3-9 3-8 3-8 4-9 3-8 2-8 3-9 2-8 2-8 2-9 2-8 3-8 2-9 3-8 4-9 2-8 2-9 3-8 4-9 2-9 3-8 3-9 4-9 3-8 5-9 3-9 4-8 4-9 4-9 3-9 3-8 4-9 4-9 3-9 4-9 3-9 4-8 5z"/><path class="v0" d="M2033 3053l8-4-6-2-8 2zM1967 3077l9-3 8-3-7-5-8 3-8 3zM1611 3210l9-3 9-4 9-3 9-4 9-4 9-3 9-4 9-3 9-4-6-5-9 4-9 3-9 5-9 3-9 3-9 4-9 3-9 4-9 3z"/><path class="v1" d="M1984 3071l8-2 8-5 9-3 8-2 8-4 8-2-6-4-8 1-9 4-8 2-8 3-8 3-9 4zM1692 3178l9-4 9-4 8-4 9-3 9-3 9-3 9-3 8-4 9-5 9-3 9-3 8-4 9-3 9-4 8-3 9-4 9-2 8-4 9-3 8-3 9-2 8-3 9-4 8-3 9-1 8-3 9-4 8-2 8-4 9-1 8-3 8-2-6-5-8 3-9 2-8 3-9 2-8 2-8 3-9 3-8 1-9 4-8 3-9 3-8 3-9 3-8 3-9 2-8 3-9 3-9 4-8 4-9 3-9 4-8 4-9 4-9 4-9 3-8 2-9 4-9 3-9 4-9 5-8 3-9 4z"/><path class="v1" d="M2040 3057l8-4-7-4-8 4zM2007 3069l8-3-6-5-9 3zM1698 3182l9-3 9-3 9-5 9-3 8-4 9-2 9-3 9-4 9-5 8-3 9-3 9-4 8-3 9-4 9-2 8-4 9-2 8-4 9-3 9-3 8-3 9-2 8-4 9-3 8-2 8-3 9-4 8-1 9-4 8-2 8-1-6-7-8 3-9 1-8 4-8 2-9 4-8 3-9 1-8 3-9 4-8 3-9 2-8 3-9 3-8 4-9 2-9 4-8 3-9 4-9 3-8 4-9 3-9 3-9 5-8 4-9 3-9 3-9 3-9 3-8 4-9 4-9 4z"/><path class="v0" d="M2015 3066l8-2 8-3 9-4-7-4-8 2-8 4-8 2zM1965 3086l9-5 8-2 8-4 9-2 8-4-7-5-8 5-8 2-8 3-9 3-8 2zM1617 3214l9-3 9-4 9-2 9-5 9-3 9-3 9-4 9-4 9-4-6-4-9 4-9 3-9 4-9 3-9 4-9 4-9 3-9 4-9 3z"/><path class="v1" d="M2046 3062l8-4-6-5-8 4zM1997 3079l8-3-6-3-9 2zM1722 3180l9-4 9-3 9-2 9-4 8-3 9-3 9-5 9-4 8-3 9-4 9-4 8-3 9-3 9-3 8-2 9-4 8-3 9-2 8-3 9-2 8-4 9-3 8-3 9-3 8-2 9-4 8-3 8-3-6-4-8 2-9 4-8 1-9 4-8 3-8 2-9 3-8 4-9 2-8 3-9 3-9 3-8 4-9 2-8 4-9 2-9 4-8 3-9 4-9 3-8 3-9 5-9 4-9 3-9 2-8 4-9 3-9 5zM1695 3190l9-3 9-3-6-5-9 3-9 4z"/><path class="v0" d="M2005 3076l8-2 9-4 8-2 8-2 8-4-6-5-9 4-8 3-8 2-8 3-8 4zM1963 3091l9-2 8-3 8-3 9-4-7-4-8 4-8 2-9 5-8 1zM1713 3184l9-4-6-4-9 3zM1623 3220l9-4 9-4 10-3 9-5 9-4 9-2 8-4 9-4-6-4-9 4-9 4-9 3-9 3-9 5-9 2-9 4-9 3z"/><path class="v0" d="M2012 3081l8-2 8-4 8-1 8-3 9-4 8-4-7-5-8 4-8 4-8 2-8 2-9 4-8 2zM1987 3091l8-3 8-4-6-5-9 4-8 3zM1936 3109l9-2-7-6-8 2zM1630 3224l9-3 9-4 9-3 9-3 9-6 9-3 9-2 9-5 9-3-7-5-9 3-9 4-8 4-9 2-9 4-9 5-10 3-9 4-9 4z"/><path class="v1" d="M2003 3084l9-3-7-5-8 3zM1945 3107l8-5 9-3 8-4 8-3 9-1-7-5-8 3-9 2-8 3-8 3-9 4zM1711 3192l9-5 8-2 9-3 9-4 9-3 9-3 9-3 8-4 9-4 9-4 9-3 8-4 9-3 9-4 8-3 9-2 9-4 8-3 9-2 8-3 9-2 8-2 9-5 8-3 9-2 8-3-6-6-9 3-8 3-9 3-8 4-9 2-8 3-9 2-8 3-9 4-8 2-9 3-9 3-8 3-9 4-9 4-8 3-9 4-9 5-9 3-8 3-9 4-9 2-9 3-9 4-9 4-9 3z"/></g>
<path d="M809 1633.3L1059.7 1539.2M642.5 1502.4L809 1633.3M642.5 1502.4L633.9 1301.5M830.8 1629.1L825.4 1625M792.4 1625.1L798.8 1622.7M887.1 1608L881.6 1603.9M754.5 1595.2L760.9 1592.9M941.8 1587.4L936.3 1583.4M718 1566.5L724.4 1564.2M995.1 1567.3L989.5 1563.5M682.8 1538.8L689.3 1536.6M1047.1 1547.8L1041.4 1544M649 1512.2L655.4 1510M636.7 1464.5L643.1 1462.4M635 1426.6L641.5 1424.5M633.3 1388L639.8 1386M631.6 1348.8L638.2 1346.9M629.9 1309L636.5 1307.1" stroke="#111" stroke-width="0.85" fill="none"/>
<g class="tk" font-size="14"><text x="836.5" y="1654.4">−10</text><text x="784.4" y="1649.2">−10</text><text x="892.5" y="1632.8">−5</text><text x="746.4" y="1618.9">−5</text><text x="946.9" y="1611.9">0</text><text x="710" y="1589.7">0</text><text x="1000" y="1591.5">5</text><text x="674.8" y="1561.6">5</text><text x="1051.6" y="1571.6">10</text><text x="640.9" y="1534.5">10</text></g>
<text class="al" x="961.8" y="1632.8" font-size="16.4">x</text>
<text class="al" x="689" y="1605" font-size="16.4">y</text>
<text class="zl" transform="translate(615.3 1404.1) rotate(87.5)" font-size="16.4">|<tspan class="i">u</tspan>(<tspan class="i">x</tspan>,<tspan class="i" dx="3.2">y</tspan>)|</text>
<linearGradient id="g5" x1="0" y1="0" x2="0" y2="1"><stop offset="0%" stop-color="#fde725"/><stop offset="6.2%" stop-color="#d8e219"/><stop offset="12.5%" stop-color="#addc30"/><stop offset="18.8%" stop-color="#84d44b"/><stop offset="25%" stop-color="#5ec962"/><stop offset="31.2%" stop-color="#3fbc73"/><stop offset="37.5%" stop-color="#28ae80"/><stop offset="43.8%" stop-color="#1fa088"/><stop offset="50%" stop-color="#21918c"/><stop offset="56.2%" stop-color="#26828e"/><stop offset="62.5%" stop-color="#2c728e"/><stop offset="68.8%" stop-color="#33638d"/><stop offset="75%" stop-color="#3b528b"/><stop offset="81.2%" stop-color="#424086"/><stop offset="87.5%" stop-color="#472d7b"/><stop offset="93.8%" stop-color="#48186a"/><stop offset="100%" stop-color="#440154"/></linearGradient>
<rect x="1085.3" y="1280.6" width="20.1" height="295" fill="url(#g5)" stroke="#111" stroke-width="0.85"/>
<path d="M1105.4 1513.8h3.3M1105.4 1450.7h3.3M1105.4 1387.6h3.3M1105.4 1324.5h3.3" stroke="#111" stroke-width="0.85" fill="none"/>
<g class="cb" font-size="12.0"><text x="1112.3" y="1517.3">2</text><text x="1112.3" y="1454.2">4</text><text x="1112.3" y="1391.1">6</text><text x="1112.3" y="1328">8</text></g>
<text class="cb" font-size="12.0" x="1106" y="1277.4" text-anchor="end">×10<tspan dy="-4.6" font-size="8.4">−2</tspan></text>
<text class="cap" transform="translate(862.9 1726.4) scale(1.06 1)" font-size="42" textLength="535.6" lengthAdjust="spacing">(f) POD-DeepONet Prediction</text>
</g>
<g id="pg">
<path d="M1237.4 1509.5L1468.3 1433.1M1468.3 1433.1L1638.5 1544.9M1229.1 1316.3L1469.6 1248M1469.6 1248L1647.3 1348.1M1468.3 1433.1L1469.6 1248M1638.5 1544.9L1647.3 1348.1M1397.4 1635.3L1237.4 1509.5M1397.4 1635.3L1638.5 1544.9M1237.4 1509.5L1229.1 1316.3" stroke="#f0f0f0" stroke-width="0.9" fill="none"/>
<path d="M1415 1628.7L1254.2 1503.9M1254.2 1503.9L1246.6 1311.3M1385.5 1625.9L1625.8 1536.5M1625.8 1536.5L1634 1340.6M1469.1 1608.4L1305.8 1486.9M1305.8 1486.9L1300.4 1296M1349 1597.2L1587.2 1511.2M1587.2 1511.2L1593.6 1317.8M1521.7 1588.7L1356.1 1470.2M1356.1 1470.2L1352.9 1281.1M1313.9 1569.7L1549.9 1486.7M1549.9 1486.7L1554.6 1295.9M1572.9 1569.5L1405.2 1454M1405.2 1454L1404 1266.6M1280.1 1543.1L1513.9 1463.1M1513.9 1463.1L1517.1 1274.8M1622.8 1550.7L1453.2 1438.1M1453.2 1438.1L1453.9 1252.5M1247.6 1517.5L1479.2 1440.2M1479.2 1440.2L1480.9 1254.4M1237 1499.5L1468.4 1423.5M1468.4 1423.5L1638.9 1534.6M1235.4 1463.8L1468.6 1389.2M1468.6 1389.2L1640.6 1498.4M1233.8 1427.4L1468.8 1354.3M1468.8 1354.3L1642.2 1461.3M1232.3 1390.6L1469.1 1319.1M1469.1 1319.1L1643.9 1423.8M1230.6 1351.5L1469.4 1281.6M1469.4 1281.6L1645.7 1383.9" stroke="#b6b6b6" stroke-width="0.85" fill="none"/>
<g transform="scale(0.5)" stroke-width="1.3" stroke-linejoin="round"><path class="w10" d="M2927 2720l8 71-6-5-9-30zM2893 2772l8-39-6 65-8-10zM2867 2848l9-145-6 36-9 94zM2710 2807l9 22-5 20-9-17z"/><path class="w11" d="M2918 2741l9-21-7 36-8 10zM2850 2726l9 52-6 13-9-49zM2798 2786l9 16-6-19-9-21zM2781 2767l9 21-7-23-8 52zM2746 2817l8-56-5 42-9-15zM2719 2829l9-58-6 20-8 58zM2702 2831l8-24-5 25-10-37zM2674 2799l10 41 8-28-6-24-7 74-11-97zM2647 2816l10 32 9-26-6 25-10-44-8 22z"/><path class="w9" d="M2909 2819l9-78-6 25-9 52zM2884 2774l9-2-6 16-9-3z"/><path class="w8" d="M2901 2733l8 86-6-1-8-20zM2859 2778l8 70-6-15-8-42z"/><path class="w12" d="M2876 2703l8 71-6 11-8-46zM2833 2779l8-3 9-50-6 16-9 14-8-42zM2807 2802l8-86-5 69-9-2zM2790 2788l8-2-6-24-9 3zM2754 2761l9 22 9-21 9 5-6 50-9-39-9 20-8 5zM2736 2774l10 43-6-29-9-21zM2692 2812l10 19-7-36-9-7zM2666 2822l8-23-6-34-8 82zM2629 2832l9-22 9 6-5 9-10-9-8 25zM2564 2809l10 14 10 17 9 15 9-29-6-7-9 6-9 13-10-17-7 59zM2529 2881l7-74-5 22-8 39z"/><path class="w13" d="M2815 2716l9 30 9 33-6-65-9 22-8 49zM2728 2771l8 3-5-7-9 24zM2619 2772l10 60-5 9-10-33zM2602 2826l9-2-8-65-7 60zM2536 2807l11 63 7-69 10 8-3 71-13-87-7 55-10-19z"/><path class="w14" d="M2611 2824l8-52-5 36-11-49z"/><path class="w9" d="M2932 2813l9-4-6-18-8-71z"/><path class="w11" d="M2924 2745l8 68-5-93-9 21zM2907 2732l9 13-7 74-8-86zM2890 2778l9-83-6 77-9 2zM2873 2768l9-16-6-49-9 145zM2804 2787l9-8-6 23-9-16zM2743 2842l9-30-6 5-10-43zM2689 2826l10 9 8-48 9 30 9-5 9 5-6-46-9 58-9-22-8 24-10-19-8 28zM2645 2848l10 43-8-75-9-6z"/><path class="w10" d="M2916 2745l8 0-6-4-9 78zM2865 2748l8 20-6 80-8-70zM2655 2891l8-21 8-39-5-9-9 26-10-32z"/><path class="w13" d="M2899 2695l8 37-6 1-8 39zM2821 2753l9 17-6-24-9-30zM2671 2831l7-101 11 96-5 14-10-41-8 23zM2625 2809l10 16-6 7-10-60zM2608 2858l7-88-4 54-9 2zM2570 2834l9-11 10 11-5 6-10-17-10-14z"/><path class="w12" d="M2882 2752l8 26-6-4-8-71zM2830 2770l9-41 8 25 9 7 9-13-6 30-9-52-9 50-8 3-9-33zM2813 2779l8-26-6-37-8 86zM2752 2812l8-22 9 21 9-47 9 46 8-49 9 26-6-1-8 2-9-21-9-5-9 21-9-22-8 56zM2734 2817l9 25-7-68-8-3zM2635 2825l10 23-7-38-9 22zM2589 2834l9-19 10 43-6-32-9 29-9-15zM2534 2862l9-13 11 42 7-54-7-36-7 69-11-63-7 74z"/><path class="w14" d="M2615 2770l10 39-6-37-8 52zM2561 2837l9-3-6-25-10-8z"/><path class="w8" d="M2939 2761l8 15-6 33-9 4zM2871 2792l8 100 9-93-6-47-9 16-8-20z"/><path class="w10" d="M2930 2731l9 30-7 52-8-68zM2888 2799l8-10-6-11-8-26zM2739 2782l10 80 8-66-5 16-9 30-9-25zM2550 2898l10 14 8-37-7-38-7 54-11-42z"/><path class="w12" d="M2922 2711l8 20-6 14-8 0zM2836 2780l9-16-6-35-9 41zM2793 2806l8-68 9 61 9-43 9 53-7-56-8 26-9 8-9-26-8 49zM2632 2828l10 33-7-36-10-16zM2596 2882l8-34 9-29-5 39-10-43-9 19zM2568 2875l8-39 12 87-9-100-9 11-9 3z"/><path class="w13" d="M2905 2764l9-65 8 12-6 34-9-13-8-37zM2845 2764l8 4-6-14-8-25zM2676 2786l10 40 9-13-6 13-11-96-7 101z"/><path class="w11" d="M2896 2789l9-25-6-69-9 83zM2853 2768l9 37 9-13-6-44-9 13-9-7zM2828 2809l8-29-6-10-9-17zM2757 2796l10 34 8-20 9-18 9 14-6 4-9-46-9 47-9-21-8 22zM2695 2813l10 36 9 0 8-46 9 28 8-49-5 35-9-5-9 5-9-30-8 48-10-9zM2669 2863l7-77-5 45-8 39zM2642 2861l8-43 9 16-4 57-10-43-10-23zM2588 2923l8-41-7-48-10-11zM2540 2872l10 26-7-49-9 13z"/><path class="w9" d="M2659 2834l10 29-6 7-8 21z"/><path class="w14" d="M2613 2819l8-51 11 60-7-19-10-39-7 88z"/><path class="w9" d="M2945 2779l8 35-6-38-8-15zM2894 2827l8-48-6 10-8 10zM2584 2912l10 15 8-36-6-9-8 41-12-87z"/><path class="w11" d="M2936 2757l9 22-6-18-9-30zM2851 2778l8 23-6-33-8-4zM2755 2825l8-36 9 16 9 14 9-36 9 35-6-12-9-14-9 18-8 20-10-34-8 66zM2719 2827l9-19-6-5-8 46zM2692 2840l10 19-7-46-9 13zM2646 2828l10 28-6-38-8 43zM2574 2883l10 29-8-76-8 39z"/><path class="w13" d="M2928 2744l8 13-6-26-8-20zM2825 2756l8-17-5 70-9-53zM2736 2785l9-35-6 32-8 49z"/><path class="w14" d="M2920 2735l8 9-6-33-8-12zM2619 2847l8-40 11 36-6-15-11-60-8 51z"/><path class="w12" d="M2911 2788l9-53-6-36-9 65zM2833 2739l9-2 9 41-6-14-9 16-8 29zM2799 2818l8-35 9 25 9-52-6 0-9 43-9-61-8 68zM2745 2750l10 75-6 37-10-80zM2728 2808l8-23-5 46-9-28zM2656 2856l9-36 8-15 11 57 8-22-6-14-10-40-7 77-10-29-9-16zM2638 2843l8-15-4 33-10-33zM2611 2870l8-23-6-28-9 29zM2543 2815l13 83-6 0-10-26z"/><path class="w10" d="M2902 2779l9 9-6-24-9 25zM2859 2801l9 23 9-44-6 12-9 13-9-37zM2702 2859l8-14 9-18-5 22-9 0-10-36zM2602 2891l9-21-7-22-8 34zM2556 2898l9-6 9-9-6-8-8 37-10-14z"/><path class="w6" d="M2885 2837l9-10-6-28-9 93z"/><path class="w7" d="M2877 2780l8 57-6 55-8-100z"/><path class="w10" d="M2942 2789l9-16 8-28-6 69-8-35-9-22zM2707 2848l9-5-6 2-8 14zM2607 2853l10 54-6-37-9 21zM2561 2899l10-3-6-4-9 6z"/><path class="w11" d="M2934 2749l8 40-6-32-8-13zM2917 2830l9-78-6-17-9 53zM2883 2733l8 52-6 52-8-57zM2865 2765l9-12-6 71-9-23zM2805 2795l8 12 9-18-6 19-9-25-8 35zM2778 2804l9 10-6 5-9-14zM2716 2843l9-29-6 13-9 18zM2680 2842l9-3 9-6 9 15-5 11-10-19-8 22-11-57zM2653 2876l9 1-6-21-10-28zM2617 2907l8-65-6 5-8 23zM2571 2896l8-25 10-1-5 42-10-29-9 9z"/><path class="w12" d="M2926 2752l8-3-6-5-8-9zM2874 2753l9-20-6 47-9 44zM2857 2748l8 17-6 36-8-23zM2822 2789l9-15-6-18-9 52zM2787 2814l9-24 9 5-6 23-9-35-9 36zM2761 2820l8-37 9 21-6 1-9-16-8 36zM2725 2814l8-25 10 45-7-49-8 23-9 19zM2662 2877l8-89-5 32-9 36zM2643 2833l10 43-7-48-8 15zM2552 2889l9 10-5-1-13-83z"/><path class="w9" d="M2891 2785l9 30 8-15 9 30-6-42-9-9-8 48-9 10zM2589 2870l10 55 8-72-5 38-8 36-10-15z"/><path class="w13" d="M2831 2774l8-1 9 0 9-25-6 30-9-41-9 2-8 17zM2751 2760l10 60-6 5-10-75zM2670 2788l10 54-7-37-8 15zM2625 2842l9-22 9 13-5 10-11-36-8 40z"/><path class="w14" d="M2743 2834l8-74-6-10-9 35z"/><path class="w11" d="M2957 2799l9-49-7-5-8 28zM2940 2787l8-15-6 17-8-40zM2802 2805l9 28 8-59 9 56-6-41-9 18-8-12-9-5zM2785 2854l8-44-6 4-9-10zM2704 2868l8-61 10 61 9-48-6-6-9 29-9 5-9-15zM2658 2830l9 1-5 46-9-1zM2624 2922l6-92-5 12-8 65zM2594 2859l9 5 9-14-5 3-8 72-10-55zM2576 2895l8-55-5 31-8 25z"/><path class="w10" d="M2948 2772l9 27-6-26-9 16zM2931 2849l9-62-6-38-8 3zM2897 2768l9 49 9-57 8 9-6 61-9-30-8 15-9-30zM2612 2850l12 72-7-15-10-54z"/><path class="w9" d="M2923 2769l8 80-5-97-9 78zM2558 2910l11 65 7-80-5 1-10 3-9-10z"/><path class="w12" d="M2889 2784l8-16-6 17-8-52zM2828 2830l9-85-6 29-9 15zM2793 2810l9-5-6-15-9 24zM2766 2805l9-8 10 57-7-50-9-21-8 37zM2731 2820l9 18 9-18 8-17-6-43-8 74-10-45-8 25zM2686 2828l8-21 10 61-6-35-9 6-9 3zM2667 2831l10 16-7-59-8 89zM2649 2846l9-16-5 46-10-43zM2584 2840l10 19-5 11-10 1z"/><path class="w13" d="M2863 2722l9 52 8-10 9 20-6-51-9 20-9 12-8-17zM2837 2745l8 17 9-32-6 43-9 0-8 1zM2757 2803l9 2-5 15-10-60zM2677 2847l9-19-6 14-10-54zM2630 2830l10 0 9 16-6-13-9-13-9 22z"/><path class="w14" d="M2854 2730l9-8-6 26-9 25z"/><path class="w12" d="M2964 2722l8 13-6 15-9 49zM2886 2789l9-37 9 9-7 7-8 16-9-20zM2817 2814l8-37 9-5-6 58-9-56-8 59zM2799 2789l9-9-6 25-9 5zM2764 2834l9-4 8-31-6-2-9 8-9-2zM2709 2799l10 52 8-47 9-3 10 34-6 3-9-18-9 48-10-61-8 61zM2600 2863l10 25 8-41-6 3-9 14-9-5z"/><path class="w11" d="M2946 2770l8 17 10-65-7 77-9-27-8 15zM2920 2813l9-15-6-29-8-9zM2904 2761l8 30-6 26-9-49zM2808 2780l9 34-6 19-9-28zM2781 2799l9 15 9-25-6 21-8 44-10-57zM2746 2835l9 26 9-27-7-31-8 17-9 18zM2618 2847l10 32 9-8-7-41-6 92-12-72z"/><path class="w10" d="M2929 2798l9-18 8-10-6 17-9 62-8-80zM2912 2791l8 22-5-53-9 57z"/><path class="w13" d="M2878 2744l8 45-6-25-8 10zM2637 2871l8-45 10 14 8-34 10 35 8-49 10 2-5 34-9 19-10-16-9-1-9 16-9-16-10 0zM2581 2851l9-6 10 18-6-4-10-19-8 55z"/><path class="w14" d="M2851 2754l9-2 9 15 9-23-6 30-9-52-9 8-9 32zM2834 2772l9-60-6 33-9 85zM2699 2722l10 77-5 69-10-61z"/><path class="w15" d="M2843 2712l8 42-6 8-8-17zM2691 2794l8-72-5 85-8 21z"/><path class="w9" d="M2563 2902l11 37 7-88-5 44-7 80-11-65z"/><path class="w12" d="M2969 2747l8 72-5-84-8-13zM2910 2760l8 8-6 23-8-30zM2875 2812l9-27 8-9-6 13-8-45-9 23zM2814 2816l9 1 8-52-6 12-8 37-9-34zM2778 2825l9-48-6 22-8 31zM2724 2805l10 38-7-39-8 47zM2605 2853l11 38 8-26 9-10 9-22-5 38-9 8-10-32-8 41-10-25z"/><path class="w13" d="M2961 2739l8 8-5-25-10 65zM2892 2776l9-14 9-2-6 1-9-9-9 37zM2866 2770l9 42-6-45-9-15zM2831 2765l9 45-6-38-9 5zM2787 2777l9 10 9-11 9 40-6-36-9 9-9 25-9-15zM2734 2843l9-16 8-32-5 40-10-34-9 3zM2715 2807l9-2-5 46-10-52zM2642 2833l9 3 10 23 9-6 9 4 9-29-7-36-8 49-10-35-8 34-10-14-8 45zM2586 2855l10-1 9-1-5 10-10-18-9 6z"/><path class="w11" d="M2944 2784l8 5 9-50-7 48-8-17-8 10zM2751 2795l10 45 8-19 9 4-5 5-9 4-9 27-9-26zM2580 2936l6-81-5-4-7 88z"/><path class="w10" d="M2918 2768l9 43 8-13 9-14-6-4-9 18-9 15-8-22zM2569 2904l11 32-6 3-11-37z"/><path class="w14" d="M2858 2783l8-13-6-18-9 2zM2840 2810l9-83-6-15-9 60z"/><path class="w15" d="M2849 2727l9 56-7-29-8-42zM2688 2828l8-73-5 39-10-2z"/><path class="w16" d="M2706 2786l9 21-6-8-10-77z"/><path class="w17" d="M2696 2755l10 31-7-64-8 72z"/><path class="w11" d="M2975 2780l9-58-7 97-8-72zM2950 2759l8 25-6 5-8-5zM2740 2858l9-11-6-20-9 16zM2611 2860l12 79-7-48-11-38z"/><path class="w13" d="M2967 2734l8 46-6-33-8-8zM2907 2798l9-57 8 34-6-7-8-8-9 2zM2864 2798l8-22 9-11-6 47-9-42-8 13zM2793 2820l9 18 9-38 9 10-6 6-9-40-9 11-9-10zM2766 2755l9 56-6 10-8 19zM2749 2847l8-51-6-1-8 32zM2730 2786l10 72-6-15-10-38zM2667 2873l8-94 11 98-7-20-9-4-9 6zM2639 2858l9-5 10 15-7-32-9-3-9 22zM2601 2845l10 15-6-7-9 1z"/><path class="w12" d="M2958 2784l9-50-6 5-9 50zM2924 2775l9-41 9 16 8 9-6 25-9 14-8 13-9-43zM2881 2765l9-2 8 34 9 1-6-36-9 14-8 9-9 27zM2820 2810l8-36-5 43-9-1zM2775 2811l9 10 9-1-6-43-9 48-9-4zM2686 2877l8-30-6-19-9 29zM2658 2868l9 5-6-14-10-23zM2631 2894l8-36-6-3-9 10zM2584 2911l8-67-6 11-6 81z"/><path class="w14" d="M2828 2774l9-34 9 40 9-21 9 39-6-15-9-56-9 83-9-45-8 52zM2757 2796l9-41-5 85-10-45zM2712 2830l9-16 9-28-6 19-9 2-9-21zM2694 2847l9-15-7-77-8 73zM2592 2844l9 1-5 9-10 1z"/><path class="w15" d="M2703 2832l9-2-6-44-10-31z"/><path class="w10" d="M2623 2939l8-45-7-29-8 26zM2575 2901l9 10-4 25-11-32z"/><path class="w12" d="M2982 2781l8-18-6-41-9 58zM2965 2722l7 116-5-104-9 50zM2905 2787l8-40-6 51-9-1zM2808 2851l9-100-6 49-9 38zM2781 2805l10 39 8-21-6-3-9 1-9-10zM2755 2854l8-30-6-28-8 51zM2683 2886l9-8 8-44-6 13-8 30-11-98zM2655 2891l8-48-5 25-10-15zM2637 2927l7-95-5 26-8 36zM2608 2864l11 88-8-92-10-15z"/><path class="w11" d="M2972 2838l10-57-7-1-8-46zM2799 2823l9 28-6-13-9-18zM2746 2841l9 13-6-7-9 11zM2580 2882l10 37-6-8-9-10z"/><path class="w13" d="M2939 2784l9-28 8 6 9-40-7 62-8-25-8-9-9-16zM2896 2756l9 31-7 10-8-34zM2870 2774l9 0-7 2-8 22zM2817 2751l9 61 9 3-7-41-8 36-9-10zM2736 2821l10 20-6 17-10-72zM2700 2834l9-10-6 8-9 15zM2663 2843l9-10 11 53-8-107-8 94-9-5zM2644 2832l11 59-7-38-9 5zM2590 2919l7-80-5 5-8 67z"/><path class="w14" d="M2931 2693l8 91-6-50-9 41zM2913 2747l9-22-6 16-9 57zM2879 2774l8-19 9 1-6 7-9 2-9 11zM2835 2815l8-37 9 25 9-43 9 14-6 24-9-39-9 21-9-40-9 34zM2763 2824l9-33 9 14-6 6-9-56-9 41zM2709 2824l9-23 9 28 9-8-6-35-9 28-9 16-9 2zM2597 2839l11 25-7-19-9-1z"/><path class="w15" d="M2922 2725l9-32-7 82-8-34z"/><path class="w8" d="M2629 2974l8-47-6-33-8 45z"/><path class="w9" d="M2619 2952l10 22-6-35-12-79z"/><path class="w12" d="M2988 2771l8 2-6-10-8 18zM2962 2801l9-13-6-66-9 40zM2832 2797l9 9-6 9-9-3zM2698 2892l8-31-6-27-8 44zM2678 2840l10 42-5 4-11-53zM2642 2861l9 13 10 10 9-8-7-33-8 48-11-59-7 95zM2605 2915l9-13-6-38-11-25z"/><path class="w10" d="M2979 2787l9-16-6 10-10 57z"/><path class="w11" d="M2971 2788l8-1-7 51-7-116zM2743 2848l9 51 9-49 9 20-7-46-8 30-9-13-10-20zM2688 2882l10 10-6-14-9 8zM2614 2902l9-28-4 78-11-88zM2586 2911l11 34 8-30-8-76-7 80-10-37z"/><path class="w13" d="M2954 2748l8 53-6-39-8-6zM2841 2806l9-19 8-12-6 28-9-25-8 37zM2787 2816l9 1 9-27 9-17-6 78-9-28-8 21-10-39zM2770 2870l8-107-6 28-9 33zM2724 2838l10 8 9 2-7-27-9 8-9-28zM2706 2861l9-31-6-6-9 10zM2670 2876l8-36-6-7-9 10z"/><path class="w14" d="M2946 2729l8 19-6 8-9 28zM2902 2732l9 8 8 49-6-42-8 40-9-31zM2876 2754l9 27 9-37-7 11-8 19-9 0zM2814 2773l9 22 9 2-6 15-9-61-9 100zM2778 2763l9 53-6-11-9-14zM2715 2830l9 8-6-37-9 23z"/><path class="w16" d="M2937 2687l9 42-7 55-8-91zM2867 2701l9 53-6 20-9-14z"/><path class="w17" d="M2929 2710l8-23-6 6-9 32z"/><path class="w15" d="M2919 2789l10-79-7 15-9 22zM2894 2744l8-12-6 24-9-1zM2858 2775l9-74-6 59-9 43z"/><path class="w9" d="M2623 2874l11 56 8-69-5 66-8 47-10-22z"/><path class="w12" d="M2994 2806l9-59-7 26-8-2zM2977 2756l9 18-7 13-8 1zM2960 2752l8 73-6-24-8-53zM2693 2827l10 37 9-9-6 6-8 31-10-10zM2648 2894l9-8-6-12-9-13zM2629 2867l10 16-5 47-11-56zM2611 2905l9-26-6 23-9 13z"/><path class="w11" d="M2986 2774l8 32-6-35-9 16zM2968 2825l9-69-6 32-9 13zM2758 2859l8-35-5 26-9 49zM2740 2876l9 28-6-56-9-2zM2639 2883l9 11-6-33-8 69zM2591 2884l10 14 10 7-6 10-8 30-11-34z"/><path class="w15" d="M2952 2739l8 13-6-4-8-19zM2926 2755l9-8-6-37-10 79zM2909 2718l8 63-6-41-9-8zM2882 2735l9 52-6-6-9-27zM2856 2736l9 22-7 17-8 12z"/><path class="w16" d="M2935 2747l8-1 9-7-6-10-9-42-8 23zM2900 2776l9-58-7 14-8 12zM2865 2758l8-26-6-31-9 74z"/><path class="w14" d="M2917 2781l9-26-7 34-8-49zM2891 2787l9-11-6-32-9 37zM2847 2785l9-49-6 51-9 19zM2812 2843l8-78 9 49-6-19-9-22-9 17zM2775 2770l9 32 10 30-7-16-9-53-8 107zM2721 2811l9 12-6 15-9-8zM2665 2803l9-13 10 46-6 4-8 36-9 8z"/><path class="w17" d="M2873 2732l9 3-6 19-9-53z"/><path class="w13" d="M2829 2814l9 34 9-63-6 21-9-9-9-2zM2794 2832l8-23 10 34-7-53-9 27-9-1zM2766 2824l9-54-5 100-9-20zM2730 2823l10 53-6-30-10-8zM2712 2855l9-44-6 19-9 31zM2684 2836l9-9-5 55-10-42zM2657 2886l8-83-4 81-10-10zM2620 2879l9-12-6 7-9 28z"/><path class="w10" d="M2749 2904l9-45-6 40-9-51z"/><path class="w12" d="M3001 2739l8 65-6-57-9 59zM2966 2801l9-28-7 52-8-73zM2745 2836l9-4 9-13 10 73-7-68-8 35-9 45-9-28zM2665 2950l7-82-7-65-8 83zM2598 2917l10 3 9-15 8-36 12 79-8-81-9 12-9 26-10-7-10-14z"/><path class="w11" d="M2975 2773l8 58 8 1 10-93-7 67-8-32-9-18-9 69zM2637 2948l8-49 9 10-6-15-9-11-10-16z"/><path class="w14" d="M2958 2711l8 90-6-49-8-13zM2915 2768l8 8 9-15-6-6-9 26-8-63zM2818 2828l8-54-6-9-8 78zM2799 2805l9-5-6 9-8 23zM2773 2892l8-101-6-21-9 54zM2728 2866l8-43-6 0-9-12z"/><path class="w15" d="M2932 2761l9-25 9 4 8-29-6 28-9 7-8 1-9 8zM2897 2693l9 78 9-3-6-50-9 58-9 11zM2853 2788l9 0 9-20 9 16-7-52-8 26-9-22-9 49zM2826 2774l9 1-6 39-9-49zM2781 2791l10 38-7-27-9-32zM2680 2800l10 54-6-18-10-46z"/><path class="w16" d="M2880 2784l8-30 9-61-6 94-9-52-9-3zM2672 2868l8-68-6-10-9 13z"/><path class="w13" d="M2835 2775l9 26 9-13-6-3-9 63-9-34zM2808 2800l10 28-6 15-10-34zM2791 2829l8-24-5 27-10-30zM2736 2823l9 13-5 40-10-53zM2690 2854l10 33 8-60 10 20 10 19-7-55-9 44-9 9-10-37-9 9z"/><path class="w10" d="M2654 2909l11 41-8-64-9 8z"/><path class="w13" d="M3007 2732l8 41-6 31-8-65zM2912 2807l9 3 8-10 9-1-6-38-9 15-8-8-9 3zM2797 2859l9-31-7-23-8 24zM2779 2821l9-10-7-20-8 101zM2724 2848l9 2 10 20 9 5 9-15-7-28-9 4-9-13-8 43-10-19zM2706 2869l9-29-7-13-8 60zM2687 2826l11 136-8-108-10-54z"/><path class="w12" d="M2998 2785l9-53-6 7-10 93zM2761 2860l9 35 9-74-6 71-10-73-9 13zM2651 2915l8-55-5 49-9-10zM2623 2926l9-10 8-51-3 83-12-79-8 36z"/><path class="w11" d="M2973 2794l8 28 9-54 8 17-7 47-8-1-8-58-9 28zM2698 2962l8-93-6 18-10-33zM2659 2860l11 60 8-35-6-17-7 82-11-41zM2640 2865l11 50-6-16-8 49zM2604 2902l10 39 9-15-6-21-9 15-10-3z"/><path class="w14" d="M2965 2720l8 74-7 7-8-90zM2938 2799l9-24-6-39-9 25zM2806 2828l8-39 10 33 9 1 8 1 9-32 9 38 9-71-6 29-9 0-9 13-9-26-9-1-8 54-10-28-9 5zM2788 2811l9 48-6-30-10-38zM2715 2840l9 8-6-1-10-20zM2678 2885l9-59-7-26-8 68z"/><path class="w17" d="M2956 2684l9 36-7-9-8 29z"/><path class="w16" d="M2947 2775l9-91-6 56-9-4zM2895 2776l8-4-6-79-9 61z"/><path class="w15" d="M2903 2772l9 35-6-36-9-78zM2868 2759l9 15 9-27 9 29-7-22-8 30-9-16-9 20z"/><path class="w13" d="M3013 2806l9-59-7 26-8-41zM2945 2770l8 16-6-11-9 24zM2909 2798l9 1 9-39-6 50-9-3-9-35zM2821 2839l9 3 9-34 9 42 8-73-6 15-9 32-8-1-9-1-10-33zM2803 2799l9 22-6 7-9 31zM2776 2850l9-28-6-1-9 74zM2712 2870l9-16-6-14-9 29zM2685 2926l8-53-6-47-9 59zM2666 2887l8-38-4 71-11-60zM2627 2865l10-8 10 33-7-25-8 51-9 10z"/><path class="w12" d="M2979 2754l8 43 9-47 8 63 9-7-6-74-9 53-8-17-9 54-8-28zM2758 2853l9-17 9 14-6 45-9-35-9 15zM2739 2847l10 61-6-38-10-20zM2674 2849l11 77-7-41-8 35zM2647 2890l10 7 9-10-7-27-8 55-11-50zM2610 2908l9 14 8-57-4 61-9 15-10-39z"/><path class="w14" d="M2971 2767l8-13-6 40-8-74zM2927 2760l9-4 9 14-7 29-9 1-8 10zM2856 2777l9 39 9-27-6-30-9 71-9-38zM2812 2821l9 18-7-50-8 39zM2785 2822l9 5 9-28-6 60-9-48-9 10z"/><path class="w17" d="M2962 2713l9 54-6-47-9-36zM2883 2715l9 37-6-5-9 27z"/><path class="w16" d="M2953 2786l9-73-6-29-9 91zM2892 2752l9-2-6 26-9-29zM2874 2789l9-74-6 59-9-15z"/><path class="w15" d="M2901 2750l8 48-6-26-8 4zM2721 2854l8-81 10 74-6 3-9-2-9-8z"/><path class="w11" d="M2749 2908l9-55-6 22-9-5zM2693 2873l11 46 8-49-6-1-8 93-11-136z"/><path class="w13" d="M3019 2795l10-61-7 13-9 59zM2977 2788l8 20 9-21 8 19-6-56-9 47-8-43-8 13zM2916 2770l8 57-6-28-9-1zM2872 2833l8-3-6-41-9 27zM2818 2859l9-17 9-26-6 26-9-3-9-18zM2773 2870l9-25 9-1-6-22-9 28-9-14zM2718 2874l9 9-6-29-9 16zM2644 2919l9-14-6-15-10-33zM2626 2941l7-75-6-1-8 57z"/><path class="w11" d="M3011 2809l8-14-6 11-9 7zM2653 2905l11 70-7-78-10-7z"/><path class="w12" d="M3002 2806l9 3-7 4-8-63zM2746 2870l8-31 10 75 9-44-6-34-9 17-9 55-10-61zM2673 2944l9-26 9-15 8-59 10 56 9-26-6-4-8 49-11-46-8 53-11-77-8 38zM2615 2898l11 43-7-19-9-14z"/><path class="w15" d="M2959 2780l9-37 9 45-6-21-9-54-9 73zM2942 2749l9 44-6-23-9-14zM2898 2783l9 7 9-20-7 28-8-48-9 2zM2880 2830l9-55-6-60-9 74zM2845 2747l9 38-6 65-9-42zM2791 2844l8-73-5 56-9-5z"/><path class="w14" d="M2951 2793l8-13-6 6-8-16zM2924 2827l10-97-7 30-9 39zM2854 2785l9 3 9 45-7-17-9-39-8 73zM2836 2816l9-69-6 61-9 34zM2809 2776l9 83-6-38-9-22zM2633 2866l11 53-7-62-10 8z"/><path class="w16" d="M2934 2730l8 19-6 7-9 4zM2889 2775l9 8-6-31-9-37zM2799 2771l10 5-6 23-9 28zM2727 2883l8-112 11 99-7-23-10-74-8 81z"/><path class="w10" d="M2664 2975l9-31-7-57-9 10z"/><path class="w13" d="M3026 2780l8 34-5-80-10 61zM3001 2760l8 5-7 41-8-19zM2974 2830l9-31-6-11-9-45zM2922 2828l9 1-7-2-8-57zM2869 2838l9-30 9 25-7-3-8 3-9-45zM2815 2852l9 14 9-81-6 57-9 17-9-83zM2716 2919l7-105 11 100-7-31-9-9-9 26zM2639 2871l12 74-7-26-11-53z"/><path class="w12" d="M3009 2765l8 47 9-32-7 15-8 14-9-3zM2983 2799l8 37 10-76-7 27-9 21-8-20zM2752 2883l9 18 9-34 9-7 10 45 8-47-6-14-9 1-9 25-9 44-10-75-8 31zM2697 2911l9 4 10 4-7-19-10-56-8 59zM2651 2945l8-57-6 17-9 14zM2633 2992l6-121-6-5-7 75z"/><path class="w14" d="M2948 2780l9 10 9-13 8 53-6-87-9 37-8 13-9-44zM2931 2829l9-79-6-20-10 97zM2913 2780l9 48-6-58-9 20zM2860 2808l9 30-6-50-9-3zM2797 2858l9-7-7-80-8 73zM2734 2914l8-57 10 26-6-13-11-99-8 112z"/><path class="w16" d="M2940 2750l8 30-6-31-8-19zM2842 2784l9-7 9 31-6-23-9-38-9 69z"/><path class="w15" d="M2905 2773l8 7-6 10-9-7zM2833 2785l9-1-6 32-9 26zM2806 2851l9 1-6-76-10-5z"/><path class="w18" d="M2896 2695l9 78-7 10-9-8z"/><path class="w17" d="M2887 2833l9-138-7 80-9 55z"/><path class="w10" d="M2689 2971l8-60-6-8-9 15zM2624 2998l9-6-7-51-11-43z"/><path class="w7" d="M2670 2952l11 96 8-77-7-53-9 26-9 31z"/><path class="w11" d="M2659 2888l11 64-6 23-11-70z"/><path class="w11" d="M3014 2849l9-4 9-33 8-13-6 15-8-34-9 32-8-47zM2989 2835l8 13 9-27-5-61-10 76-8-37zM2740 2937l9-36-7-44-8 57zM2703 2917l9 15 9-55-5 42-10-4-9-4zM2656 2938l10-5 9 5-5 14-11-64-8 57zM2638 2943l9-17-8-55-6 121z"/><path class="w12" d="M3006 2821l8 28-5-84-8-5zM2981 2786l8 49-6-36-9 31zM2813 2872l8-18-6-2-9-1zM2785 2866l9 4 9-55-6 43-8 47-10-45zM2731 2926l9 11-6-23-11-100zM2647 2926l9 12-5 7-12-74z"/><path class="w13" d="M2972 2766l9 20-7 44-8-53zM2929 2773l8 45-6 11-9-1zM2821 2854l9-24-6 36-9-14zM2803 2815l10 57-7-21-9 7zM2749 2901l9-43 8-42-5 85-9-18-10-26zM2721 2877l10 49-8-112-7 105z"/><path class="w14" d="M2955 2780l8 32 9-46-6 11-9 13-9-10zM2937 2818l9-20-6-48-9 79zM2919 2831l10-58-7 55-9-48zM2866 2792l9-5-6 51-9-30zM2830 2830l9-37-6-8-9 81zM2766 2816l9-12 10 62-6-6-9 7-9 34z"/><path class="w15" d="M2946 2798l9-18-7 0-8-30zM2911 2777l8 54-6-51-8-7zM2875 2787l9-19 9 10-6 55-9-25-9 30z"/><path class="w18" d="M2893 2778l9-33 9 32-6-4-9-78-9 138z"/><path class="w16" d="M2857 2789l9 3-6 16-9-31z"/><path class="w17" d="M2839 2793l9-39 9 35-6-12-9 7-9 1z"/><path class="w10" d="M2694 2963l9-46-6-6-8 60z"/><path class="w7" d="M2684 2916l10 47-5 8-8 77z"/><path class="w8" d="M2675 2938l9-22-3 132-11-96z"/><path class="w9" d="M2629 2974l9-31-5 49-9 6z"/><path class="w11" d="M3038 2849l9-48-7-2-8 13zM3012 2829l9-34-7 54-8-28zM2737 2903l9-17 9 5-6 10-9 36-9-11zM2709 2943l8-82-5 71-9-15zM2690 2891l9 14-5 58-10-47zM2653 2945l10-1 9 13 9-21-6 2-9-5-10 5-9-12z"/><path class="w10" d="M3021 2795l9 28 8 26-6-37-9 33-9 4zM2995 2835l9 7 8-13-6-8-9 27-8-13zM2699 2905l10 38-6-26-9 46zM2634 2933l11 80 8-68-6-19-9 17-9 31z"/><path class="w12" d="M2987 2804l8 31-6 0-8-49zM2819 2907l9-44-7-9-8 18zM2791 2871l10 7-7-8-9-4zM2717 2861l10 51 10-9-6 23-10-49-9 55zM2681 2936l9-45-6 25-9 22z"/><path class="w15" d="M2979 2742l8 62-6-18-9-20zM2952 2794l9-41-6 27-9 18zM2837 2842l9-35-7-14-9 37zM2773 2890l9-45-7-41-9 12z"/><path class="w14" d="M2961 2753l8 63 10-74-7 24-9 46-8-32zM2935 2798l8 14-6 6-8-45zM2890 2823l9 39-6-84-9-10zM2782 2845l9 26-6-5-10-62zM2764 2867l9 23-7-74-8 42z"/><path class="w13" d="M2943 2812l9-18-6 4-9 20zM2917 2804l9 40 9-46-6-25-10 58-8-54zM2828 2863l9-21-7-12-9 24zM2801 2878l8-35 10 64-6-35-10-57-9 55zM2755 2891l9-24-6-9-9 43z"/><path class="w17" d="M2909 2726l8 78-6-27-9-32zM2873 2765l9-22-7 44-9 5zM2846 2807l8-52 10 74-7-40-9-35-9 39z"/><path class="w16" d="M2899 2862l10-136-7 19-9 33zM2882 2743l8 80-6-55-9 19zM2864 2829l9-64-7 27-9-3z"/><path class="w10" d="M3043 2883l10-63-6-19-9 48zM3010 2835l8 17-6-23-8 13zM2641 2964l9 2 9-28-6 7-8 68-11-80z"/><path class="w9" d="M3036 2823l7 60-5-34-8-26z"/><path class="w11" d="M3018 2852l9-32 9 3-6 0-9-28-9 34zM3002 2836l8-1-6 7-9-7zM2743 2923l9 13-6-50-9 17zM2706 2948l9-39-6 34-10-38zM2659 2938l10 29 9-45 9 10-6 4-9 21-9-13-10 1z"/><path class="w12" d="M2994 2770l8 66-7-1-8-31zM2932 2856l9 5-6-63-9 46zM2825 2850l9-7-6 20-9 44zM2752 2936l9-61-6 16-9-5zM2715 2909l9 12 9-24 10 26-6-20-10 9-10-51-8 82zM2687 2932l9-36 10 52-7-43-9-14-9 45z"/><path class="w15" d="M2985 2801l9-31-7 34-8-62zM2959 2810l9-58-7 1-9 41zM2906 2833l9-39-6-68-10 136zM2861 2804l9 46-6-21-10-74zM2788 2802l9 35-6 34-9-26z"/><path class="w13" d="M2976 2839l9-38-6-59-10 74zM2941 2861l9-57-7 8-8-14zM2923 2816l9 40-6-12-9-40zM2897 2812l9 21-7 29-9-39zM2797 2837l10 20 9 8 9-15-6 57-10-64-8 35-10-7zM2761 2875l9-9 9 10-6 14-9-23-9 24z"/><path class="w14" d="M2968 2752l8 87-7-23-8-63zM2950 2804l9 6-7-16-9 18zM2870 2850l9-7-6-78-9 64zM2834 2843l9-17-6 16-9 21zM2779 2876l9-74-6 43-9 45z"/><path class="w16" d="M2915 2794l8 22-6-12-8-78zM2843 2826l9-81-6 62-9 35z"/><path class="w17" d="M2888 2723l9 89-7 11-8-80zM2852 2745l9 59-7-49-8 52z"/><path class="w18" d="M2879 2843l9-120-6 20-9 22z"/><path class="w10" d="M3033 2878l9-37 9-11 9-39-7 29-10 63-7-60-9-3zM3008 2862l8-13-6-14-8 1zM2749 2912l10 73 8-72-6-38-9 61-9-13z"/><path class="w9" d="M3016 2849l8 39 9-10-6-58-9 32-8-17z"/><path class="w12" d="M3000 2816l8 46-6-26-8-66zM2982 2845l9-39-6-5-9 38zM2930 2834l8 6 9-25-6 46-9-5-9-40zM2876 2901l9-48-6-10-9 7zM2813 2875l9 32-6-42-9-8zM2767 2913l10 19-7-66-9 9zM2739 2897l10 15-6 11-10-26zM2693 2939l9-15 10 12-6 12-10-52-9 36zM2654 2880l12 94-7-36-9 28z"/><path class="w14" d="M2991 2806l9 10-6-46-9 31zM2964 2874l10-137 8 108-6-6-8-87-9 58zM2903 2834l9-11 9-11 9 22-7-18-8-22-9 39-9-21zM2831 2823l9 26 9-26-6 3-9 17-9 7zM2785 2868l10-1 9 33-7-63-9-35-9 74z"/><path class="w13" d="M2947 2815l9-19 8 78-5-64-9-6-9 57zM2867 2834l9 67-6-51-9-46zM2822 2907l9-84-6 27-9 15zM2804 2900l9-25-6-18-10-20zM2777 2932l8-64-6 8-9-10z"/><path class="w16" d="M2885 2853l9-38 9 19-6-22-9-89-9 120z"/><path class="w17" d="M2849 2823l9-55 9 66-6-30-9-59-9 81z"/><path class="w11" d="M2712 2936l9-28 10 75 8-86-6 0-9 24-9-12-9 39zM2666 2974l8-52 10 34 9-17-6-7-9-10-9 45-10-29zM2647 2984l7-104-4 86-9-2z"/><path class="w11" d="M3056 2878l11-84-7-3-9 39zM3005 2875l10-53-7 40-8-46zM2819 2892l9 20-6-5-9-32zM2774 2933l9-36-6 35-10-19zM2719 2964l8-54 9 0 10 49 10-4-7-43-10-15-8 86-10-75-9 28zM2699 2929l10 43-7-48-9 15zM2680 2925l11 76-7-45-10-34z"/><path class="w10" d="M3048 2853l8 25-5-48-9 11zM3015 2822l7 72-6-45-8 13zM2756 2955l9-23 9 1-7-20-8 72-10-73zM2709 2972l10-8-7-28-10-12zM2691 3001l8-72-6 10-9 17z"/><path class="w8" d="M3032 2830l6 102 10-79-6-12-9 37-9 10z"/><path class="w9" d="M3022 2894l10-64-8 58-8-39z"/><path class="w12" d="M2988 2850l9-6 8 31-5-59-9-10-9 39zM2963 2809l8 45-7 20-8-78zM2927 2842l9 47 9-61-7 12-8-6-9-22zM2909 2861l9 23-6-61-9 11zM2873 2864l9-14-6 51-9-67zM2810 2883l9 9-6-17-9 25zM2783 2897l9 20-7-49-8 64zM2671 2926l9-1-6-3-8 52zM2652 2952l9-34-7-38-7 104z"/><path class="w14" d="M2971 2854l9-76 8 72-6-5-8-108-10 137zM2954 2817l9-8-7-13-9 19zM2837 2850l9-8-6 7-9-26z"/><path class="w13" d="M2945 2828l9-11-7-2-9 25zM2918 2884l9-42-6-30-9 11zM2882 2850l10-32 8 56 9-13-6-27-9-19-9 38-9 48zM2828 2912l9-62-6-27-9 84zM2792 2917l9-39 9 5-6 17-9-33-10 1zM2661 2918l10 8-5 48-12-94z"/><path class="w15" d="M2864 2846l9 18-6-30-9-66zM2846 2842l9-11-6-8-9 26z"/><path class="w16" d="M2855 2831l9 15-6-78-9 55z"/><path class="w10" d="M3063 2881l9-34-5-53-11 84zM3030 2823l8 45-6-38-10 64zM2762 2965l9-11-6-22-9 23zM2697 3006l9-45 10 19 8-26-5 10-10 8-10-43-8 72z"/><path class="w9" d="M3038 2868l8 6 9-43 8 50-7-3-8-25-10 79-6-102zM2753 2981l9-16-6-10-10 4zM2688 3006l9 0-6-5-11-76z"/><path class="w11" d="M2995 2864l9-35 8 0 9 29 9-35-8 71-7-72-10 53-8-31-9 6zM2771 2954l9-54-6 33-9-1zM2743 2923l10 58-7-22-10-49zM2724 2954l9-29-6-15-8 54zM2677 2962l11 44-8-81-9 1zM2660 3015l8-41-7-56-9 34z"/><path class="w13" d="M2969 2814l9 16 9-16 8 50-7-14-8-72-9 76-8-45zM2925 2831l9-4-7 15-9 42zM2907 2798l9 55-7 8-9 13zM2844 2937l9-65 9 76 9-91 9 4 9-24-7 13-9 14-9-18-9-15-9 11-9 8zM2807 2912l9-47 9 20-6 7-9-9-9-5z"/><path class="w14" d="M2951 2835l9-21 9 0-6-5-9 8-9 11zM2889 2837l9 35 9-74-7 76-8-56-10 32z"/><path class="w12" d="M2934 2827l8 29 9-21-6-7-9 61-9-47zM2916 2853l9-22-7 53-9-23zM2825 2885l10-23 9 75-7-87-9 62-9-20zM2780 2900l9 4 9 10 9-2-6-34-9 39-9-20-9 36zM2733 2925l10-2-7-13-9 0zM2668 2974l9-12-6-36-10-8z"/><path class="w8" d="M3069 2906l9-40-6-19-9 34zM2769 3014l8-41-6-19-9 11zM2695 3058l8-76-6 24-9 0z"/><path class="w9" d="M3061 2873l8 33-6-25-8-50zM3043 2945l10-111-7 40-8-6zM2749 2949l11 104-7-72-10-58zM2703 2982l9 13 10-22 9 23-7-42-8 26-10-19-9 45zM2683 2930l12 128-7-52-11-44z"/><path class="w10" d="M3053 2834l8 39-6-42-9 43zM3036 2812l7 133-5-77-8-45zM2777 2973l10 7-7-80-9 54zM2731 2996l9-9-7-62-9 29z"/><path class="w12" d="M2993 2829l8 12 9 15 9-3 9-54 8 13-6 11-9 35-9-29-8 0-9 35-8-50zM2877 2888l9 18-6-45-9-4zM2814 2922l9-33 9 62 9-74 9 4-6 56-9-75-10 23-9-20-9 47z"/><path class="w13" d="M2984 2858l9-29-6-15-9 16zM2922 2828l9 60 9-38 9 2 9-15 8 56-6-79-9 21-9 21-8-29-9 4-9 22zM2886 2906l9-63-6-6-9 24z"/><path class="w14" d="M2966 2893l10-129 8 94-6-28-9-16-9 0zM2895 2843l9-6 9-21-6-18-9 74-9-35z"/><path class="w15" d="M2913 2816l9 12-6 25-9-55z"/><path class="w11" d="M2850 2881l9 45 9-39 9 1-6-31-9 91-9-76-9 65zM2787 2980l9-26 9-13 9-19-7-10-9 2-9-10-9-4zM2740 2987l9-38-6-26-10 2zM2663 2916l11 52 9-38-6 32-9 12-8 41z"/><path class="w7" d="M2760 3053l9-39-7-49-9 16z"/><path class="w9" d="M3069 2803l7 79 9-33-7 17-9 40-8-33zM3050 2880l10-55-7 9-10 111zM2784 2991l8-65-5 54-10-7zM2737 2980l10 8-7-1-9 9zM2710 3016l8-49-6 28-9-13zM2690 2992l10 10-5 56-12-128z"/><path class="w12" d="M3060 2825l9-22-8 70-8-39zM3025 2876l9-34-6-43-9 54zM2999 2880l9-54 9 8-7 22-9-15-8-12zM2972 2888l9-33-5-91-10 129zM2938 2800l8 98 9-58-6 12-9-2-9 38zM2811 2908l9-11 9 11 9-18-6 61-9-62-9 33-9 19zM2670 2950l10 29-6-11-11-52z"/><path class="w10" d="M3043 2818l7 62-7 65-7-133zM2792 2926l10 39 9-57-6 33-9 13-9 26zM2747 2988l8-41-6 2-9 38zM2727 2919l10 61-6 16-9-23z"/><path class="w13" d="M3034 2842l9-24-7-6-8-13zM2981 2855l9 10-6-7-8-94zM2955 2840l9 15-6-18-9 15zM2892 2894l10-49-7-2-9 63z"/><path class="w11" d="M3017 2834l8 42-6-23-9 3zM2990 2865l9 15-6-51-9 29zM2964 2855l8 33-6 5-8-56zM2838 2890l9 44 9 15 9-50 9 24 9-2 9-27-6 12-9-18-9-1-9 39-9-45-9-4-9 74zM2718 2967l9-48-5 54-10 22zM2680 2979l10 13-7-62-9 38z"/><path class="w14" d="M2920 2830l8 30 10-60-7 88-9-60-9-12zM2902 2845l9 8-7-16-9 6z"/><path class="w15" d="M2911 2853l9-23-7-14-9 21z"/><path class="w8" d="M2774 2996l10-5-7-18-8 41zM2755 2947l11 77-6 29-11-104zM2700 3002l10 14-7-34-8 76z"/><path class="w6" d="M2766 3024l8-28-5 18-9 39z"/><path class="w11" d="M3084 2826l8-7-7 30-9 33zM3032 2855l8-6-6-7-9 34zM2970 2886l9 6-7-4-8-33zM2863 2916l9-7-7-10-9 50zM2844 2902l10 47-7-15-9-44zM2799 2931l9 22-6 12-10-39zM2725 2997l9-29 9 6-6 6-10-61-9 48zM2687 2979l8-39 10 16-5 46-10-10-10-13z"/><path class="w12" d="M3065 2877l10-47 9-4-8 56-7-79-9 22zM3040 2849l9-10-6-21-9 24zM3023 2832l9 23-7 21-8-42zM3005 2888l10-55-7-7-9 54zM2979 2892l9-66 8 58-6-19-9-10-9 33zM2953 2868l8 23 9-5-6-31-9-15-9 58zM2872 2909l9-34 9-3 9 5-7 17-9 27-9 2-9-24zM2835 2919l9-17-6-12-9 18zM2817 2950l9-77-6 24-9 11zM2677 2961l10 18-7 0-10-29z"/><path class="w9" d="M3056 2917l9-40-5-52-10 55zM2743 2974l10 48 9-32 9-56 9 35-6 27-8 28-11-77-8 41-10-8z"/><path class="w10" d="M3049 2839l7 78-6-37-7-62zM2996 2884l9 4-6-8-9-15zM2854 2949l9-33-7 33-9-15zM2808 2953l9-3-6-42-9 57zM2790 3005l9-74-7-5-8 65zM2705 2956l10 3 10 38-7-30-8 49-10-14z"/><path class="w13" d="M3015 2833l8-1-6 2-9-8zM2944 2846l9 22-7 30-8-98zM2926 2871l9 8-7-19-8-30zM2899 2877l9-19-6-13-10 49zM2826 2873l9 46-6-11-9-11z"/><path class="w14" d="M2935 2879l9-33-6-46-10 60zM2908 2858l9-38 9 51-6-41-9 23-9-8z"/><path class="w8" d="M2780 2969l10 36-6-14-10 5z"/><path class="w11" d="M3081 2874l8 3 9-7-6-51-8 7-9 4zM3046 2909l10-100 8 61-8 47-7-78-9 10zM3029 2865l8 31-5-41-9-23zM3003 2892l9-31-7 27-9-4zM2959 2870l9 26 8 7-6-17-9 5-8-23zM2896 2961l9-21-6-63-9-5zM2869 2915l9 18-6-24-9 7zM2851 2907l9 42-6 0-10-47zM2824 2974l8-67-6-34-9 77zM2711 2941l11 62-7-44-10-3zM2683 2985l10 4 10 14-8-63-8 39-10-18z"/><path class="w10" d="M3072 2890l9-16-6-44-10 47zM3037 2896l9 13-6-60-8 6zM2976 2903l9-14-6 3-9-6zM2860 2949l9-34-6 1-9 33zM2796 2989l9-61 9 64-6-39-9-22-9 74zM2778 3023l8-78-6 24-9-35zM2740 2957l10 32-7-15-9-6z"/><path class="w9" d="M3064 2870l8 20-7-13-9 40zM2814 2992l10-18-7-24-9 3zM2786 2945l10 44-6 16-10-36zM2750 2989l9 19-6 14-10-48zM2722 3003l10 69 8-115-6 11-9 29-10-38z"/><path class="w12" d="M3012 2861l9-14 8 18-6-33-8 1-10 55zM2985 2889l9-27 9 30-7-8-8-58-9 66zM2905 2940l9-58-6-24-9 19zM2878 2933l9-42 9 70-6-89-9 3-9 34zM2842 2923l9-16-7-5-9 17zM2703 3003l8-62-6 15-10-16z"/><path class="w13" d="M2941 2854l9 9 9 7-6-2-9-22-9 33zM2832 2907l10 16-7-4-9-46z"/><path class="w14" d="M2914 2882l9-14 10-47 8 33-6 25-9-8-9-51-9 38z"/><path class="w8" d="M2769 3061l9-38-7-89-9 56z"/><path class="w7" d="M2759 3008l10 53-7-71-9 32z"/><path class="w9" d="M3096 2864l8 31-6-25-9 7zM2793 3011l9-17-6-5-10-44zM2756 2993l10 32-7-17-9-19z"/><path class="w10" d="M3069 2905l10-58 8 32 9-15-7 13-8-3-9 16-8-20zM3045 2849l7 57 9-26-5-71-10 100-9-13zM2875 2960l9-19 9 16 10-43 9 9-7 17-9 21-9-70-9 42-9-18zM2820 2941l10-12-6 45-10 18zM2802 2994l9-53-6-13-9 61zM2747 3004l9-11-6-4-10-32zM2700 3024l8-55-5 34-10-14z"/><path class="w11" d="M3061 2880l8 25-5-35-8-61zM3036 2857l9-8-8 47-8-31zM2974 2863l9 16 9 5 8 10 10-29-7 27-9-30-9 27-9 14-8-7zM2912 2923l9-16-7-25-9 58zM2830 2929l9 20 9 24 9-34 9-26 9 47-6-45-9 34-9-42-9 16-10-16-8 67zM2811 2941l9 0-6 51-9-64zM2717 2932l11 72-6-1-11-62zM2689 2974l11 50-7-35-10-4z"/><path class="w12" d="M3010 2865l8-6 9 25 9-27-7 8-8-18-9 14-9 31zM2947 2925l9-26 9-16 9-20-6 33-9-26-9-7-9-9zM2921 2907l9-3-7-36-9 14zM2708 2969l9-37-6 9-8 62z"/><path class="w13" d="M2930 2904l9-12 8 33-6-71-8-33-10 47z"/><path class="w4" d="M2785 3127l8-116-7-66-8 78z"/><path class="w2" d="M2776 3141l9-14-7-104-9 38z"/><path class="w3" d="M2766 3025l10 116-7-80-10-53z"/><path class="w8" d="M2728 3004l10 25 9-25-7-47-8 115-10-69z"/><path class="w10" d="M3094 2887l9-36 9-11-8 55-8-31-9 15zM3069 2856l8 29-8 20-8-25zM3033 2889l8 43-5-75-9 27zM2954 2907l9 12-7-20-9 26zM2882 2936l9-28 9 58 9-53 9 51 9-41-6-16-9 16-9-9-10 43-9-16-9 19zM2854 2982l10-51-7 8-9 34zM2836 2968l9 26-6-45-9-20zM2818 2975l9 0-7-34-9 0zM2696 3015l9-25 10 8-7-29-8 55-11-50z"/><path class="w11" d="M3077 2885l9-41 8 43-7-8-8-32-10 58zM3041 2932l10-66 9-27 9 17-8 24-9 26-7-57-9 8zM2999 2860l8 33 8 29 9-25 9-8-6-5-9-25-8 6-10 29-8-10zM2963 2919l8 5 9-7 9-21-6-17-9-16-9 20-9 16zM2927 2923l9-21-6 2-9 3zM2873 2916l9 20-7 24-9-47zM2827 2975l9-7-6-39-10 12zM2715 2998l10 25 9-45-6 26-11-72-9 37z"/><path class="w12" d="M2989 2896l10-36-7 24-9-5zM2936 2902l9-34 9 39-7 18-8-33-9 12zM2864 2931l9-15-7-3-9 26z"/><path class="w9" d="M2845 2994l9-12-6-9-9-24zM2809 3017l9-42-7-34-9 53zM2753 3043l9-48-6-2-9 11zM2734 2978l9 34-5 17-10-25z"/><path class="w4" d="M2800 3113l9-96-7-23-9 17z"/><path class="w2" d="M2781 3048l10 23 9 42-7-102-8 116-9 14z"/><path class="w3" d="M2772 3026l9 22-5 93-10-116z"/><path class="w8" d="M2762 2995l10 31-6-1-10-32zM2743 3012l10 31-6-39-9 25z"/><path class="w11" d="M3092 2887l9-21 9-8 8 14-6-32-9 11-9 36-8-43zM3066 2876l8 17-5-37-9-17zM3048 2904l10-64-7 26-10 66zM2978 2879l9 39-7-1-9 7zM2933 2923l10-20-7-1-9 21zM2915 2918l10-12-7 58-9-51zM2870 2945l9 1 9-2 9-30-6-6-9 28-9-20-9 15zM2824 2931l9-14 9 52-6-1-9 7-9 0zM2730 2960l10 28-6-10-9 45z"/><path class="w10" d="M3074 2893l9 16 9-22-6-43-9 41-8-29zM3031 2916l9-14-7-13-9 8zM2987 2918l8 17-6-39-9 21zM2960 2905l9 42 9-68-7 45-8-5-9-12zM2925 2906l8 17-6 0-9 41zM2897 2914l9 72 9-68-6-5-9 53-9-58zM2768 2962l10 28-6 36-10-31zM2740 2988l10 42-7-18-9-34zM2712 3026l9-2 9-64-5 63-10-25-10-8z"/><path class="w12" d="M3058 2840l8 36-6-37-9 27zM2995 2935l11-106 7 79-6-15-8-33-10 36zM2952 2873l8 32-6 2-9-39z"/><path class="w9" d="M3040 2902l8 2-7 28-8-43zM3013 2908l8 46 10-38-7-19-9 25-8-29zM2861 3048l9-103-6-14-10 51zM2842 2969l10 44-7-19-9-26zM2815 3014l9-83-6 44-9 42zM2778 2990l9-14-6 72-9-22zM2759 3037l9-75-6 33-9 48zM2703 3070l9-44-7-36-9 25z"/><path class="w13" d="M2943 2903l9-30-7-5-9 34z"/><path class="w7" d="M2852 3013l9 35-7-66-9 12zM2787 2976l10 45-6 50-10-23z"/><path class="w4" d="M2797 3021l9 39 9-46-6 3-9 96-9-42z"/><path class="w8" d="M2750 3030l9 7-6 6-10-31z"/><path class="w12" d="M3118 2803l7 43-7 26-8-14zM3011 2905l9-5-7 8-7-79zM2949 2956l9-64 9 31-7-18-8-32-9 30zM2830 2983l10-48-7-18-9 14zM2737 2999l9-34-6 23-10-28z"/><path class="w11" d="M3106 2928l12-125-8 55-9 8zM3064 2903l8 5-6-32-8-36zM2976 2919l9-14 8 31-6-18-9-39-9 68zM2922 2958l9-9-6-43-10 12zM2876 2950l10-26-7 22-9-1zM2840 2935l9 91-7-57-9-52zM2775 3006l8-61 10 35-6-4-9 14-10-28zM2727 2980l10 19-7-39-9 64z"/><path class="w9" d="M3098 2906l8 22-5-62-9 21zM3020 2900l8 45-7 9-8-46zM2993 2936l8 38-6-39-8-17zM2766 3027l9-21-7-44-9 75z"/><path class="w10" d="M3072 2908l9-19 10-41 7 58-6-19-9 22-9-16-8-17zM3037 2946l10-69 8 42 9-16-6-63-10 64-8-2-9 14zM3001 2974l10-69-5-76-11 106zM2967 2923l9-4-7 28-9-42zM2931 2949l9 17 9-10-6-53-10 20-8-17zM2886 2924l9 59 9-36 9-11 9 22-7-40-9 68-9-72-9 30-9 2zM2821 3015l9-32-6-52-9 83zM2793 2980l9-8-5 49-10-45zM2746 2965l10 75-6-10-10-42zM2718 3037l9-57-6 44-9 2z"/><path class="w8" d="M3028 2945l9 1-6-30-10 38zM2849 3026l9-34-6 21-10-44zM2756 3040l10-13-7 10-9-7zM2709 3058l9-21-6-11-9 44z"/><path class="w7" d="M2867 3081l9-131-6-5-9 103zM2802 2972l10 77 9-34-6-1-9 46-9-39z"/><path class="w5" d="M2858 2992l9 89-6-33-9-35z"/><path class="w13" d="M3122 2898l11-83-8 31-7-43z"/><path class="w10" d="M3114 2886l8 12-4-95-12 125zM3044 2901l9 16 9-29 8 37 9-33 8 19 9 10 9-23-7 8-7-58-10 41-9 19-8-5-9 16-8-42-10 69zM3017 2953l10-62-7 9-9 5zM2982 2939l9 10 9-3-7-10-8-31-9 14zM2928 2995l10-82 8 14 9 3 9 61-6-99-9 64-9 10-9-17-9 9zM2892 2969l9-4 9-11 9 28-6-46-9 11-9 36-9-59zM2837 3002l9 23-6-90-10 48zM2800 3001l9 39-7-68-9 8zM2782 3070l8-78-7-47-8 61zM2752 2981l10 52-6 7-10-75zM2734 3037l10 18-7-56-10-19z"/><path class="w9" d="M3105 2898l9-12-8 42-8-22zM3027 2891l7 89-6-35-8-45zM2919 2982l9 13-6-37-9-22zM2846 3025l9-19-6 20-9-91zM2828 3022l9-20-7-19-9 32zM2762 3033l10-21-6 15-10 13zM2726 3112l8-75-7-57-9 57z"/><path class="w8" d="M3034 2980l10-79-7 45-9-1zM3000 2946l8 36 9-29-6-48-10 69-8-38zM2855 3006l9-32-6 18-9 34zM2809 3040l10 8-7 1-10-77zM2772 3012l10 58-7-64-9 21zM2714 2987l12 125-8-75-9 21z"/><path class="w11" d="M2964 2991l10-88 8 36-6-20-9 4-9-31zM2883 2965l9 4-6-45-10 26zM2790 2992l10 9-7-21-10-35zM2744 3055l8-74-6-16-9 34z"/><path class="w6" d="M2864 2974l10 94 9-103-7-15-9 131-9-89z"/><path class="w7" d="M2819 3048l9-26-7-7-9 34z"/><path class="w11" d="M3130 2848l7 38-4-71-11 83zM3077 2889l10-27 7 39-7 10-8-19-9 33zM3051 2908l9-25 8 19-6-14-9 29-9-16zM2889 2942l9 17-6 10-9-4z"/><path class="w10" d="M3103 2900l9-35 8 45 10-62-8 50-8-12-9 12-9 23zM3068 2902l9-13-7 36-8-37zM3024 2960l9-64-6-5-10 62zM2971 2940l9-13 8 46-6-34-8-36-10 88zM2943 2996l10-47 9 13-7-32-9-3-8-14zM2898 2959l9 9 10-23 9 29-7 8-9-28-9 11-9 4zM2797 3027l9-18-6-8-10-9zM2750 3048l9-58 10 50-7-7-10-52-8 74zM2720 2981l11 55-5 76-12-125z"/><path class="w9" d="M3094 2901l9-1-7 21-9-10zM3033 2896l8 44 10-32-7-7-10 79-7-89zM2988 2973l10-42 8 16-6-1-9 3-9-10zM2962 2962l9-22-7 51-9-61zM2935 2980l8 16-5-83-10 82zM2806 3009l9-3 10-31-6 73-10-8-9-39zM2787 3005l10 22-7-35-8 78zM2769 3040l9 3-6-31-10 21zM2731 3036l8-54 11 66-6 7-10-18-8 75z"/><path class="w8" d="M3006 2947l9 8 9 5-7-7-9 29-8-36zM2926 2974l9 6-7 15-9-13zM2862 3072l9-93 9 47 9-84-6 23-9 103-10-94-9 32zM2825 2975l9 67 9-1-6-39-9 20-9 26zM2778 3043l9-38-5 65-10-58z"/><path class="w3" d="M2853 3144l9-72-7-66-9 19z"/><path class="w4" d="M2843 3041l10 103-7-119-9-23z"/><path class="w12" d="M3137 2834l8 43-8 9-7-38zM2896 2934l9 7-7 18-9-17zM2726 2939l11 88-6 9-11-55z"/><path class="w11" d="M3122 2772l4 168 11-106-7 14-10 62-8-45zM3093 2886l8 31-7-16-7-39zM3031 2942l10-69-8 23-9 64zM2905 2941l9 15-7 12-9-9zM2765 2994l10 13-6 33-10-50zM2737 3027l9-40 10 38-6 23-11-66-8 54z"/><path class="w13" d="M3110 2894l12-122-10 93-9 35z"/><path class="w10" d="M3101 2917l9-23-7 6-9 1zM3082 2963l11-77-6-24-10 27zM3057 2917l9 16 8 16-6-47-8-19-9 25zM3041 2873l7 81-7-14-8-44zM3013 2949l9-47-7 53-9-8zM2950 2943l9-8 9 2 9 6 9 54-6-70-9 13-9 22-9-13-10 47zM2914 2956l9 28-6-39-10 23zM2887 2992l9-58-7 8-9 84zM2794 2993l9 16 9-30-6 30-9 18-10-22zM2756 3025l9-31-6-4-9 58z"/><path class="w9" d="M3074 2949l8 14-5-74-9 13zM3048 2954l9-37-6-9-10 32zM3022 2902l9 40-7 18-9-5zM2995 2975l9-5 9-21-7-2-8-16-10 42zM2923 2984l9 1 9-16 9-26-7 53-8-16-9-6-9-29zM2877 2986l10 6-7 34-9-47zM2812 2979l10 90 9-53 9-28 10 0-7 53-9 1-9-67-10 31-9 3zM2785 3089l9-96-7 12-9 38z"/><path class="w8" d="M2986 2997l9-22-7-2-8-46zM2868 3046l9-60-6-7-9 93zM2775 3007l10 82-7-46-9-3z"/><path class="w3" d="M2850 2988l9 81 9-23-6 26-9 72-10-103z"/><path class="w10" d="M3142 2915l7 27-4-65-8-43zM3107 2921l9-7-6-20-9 23zM3037 2938l9 3-5-68-10 69zM3011 2941l9-19-7 27-9 21zM2956 3014l10-76 8 51-6-52-9-2-9 8zM2893 2986l9 36-6-88-9 58zM2837 2990l10 7 9-6-6-3-10 0-9 28zM2744 3063l9-41 10 78 8-114-6 8-9 31-10-38-9 40z"/><path class="w9" d="M3132 2943l10-28-5-81-11 106zM3063 2942l9-8 10-41 8 12 8 47 9-31-6-4-8-31-11 77-8-14-8-16-9-16zM3046 2941l8 50-6-37-7-81zM2974 2989l9 10-6-56-9-6zM2939 2975l9 17 8 22-6-71-9 26-9 16zM2920 3009l9 21-6-46-9-28zM2884 3025l9-39-6 6-10-6zM2819 3009l9 28-6 32-10-90z"/><path class="w11" d="M3126 2875l6 68-6-3-4-168zM3020 2922l9-3 8 19-6 4-9-40-9 47zM2902 3022l9-75 9 62-6-53-9-15-9-7zM2800 3007l9-28 10 30-7-30-9 30-9-16zM2771 2986l10 39-6-18-10-13zM2734 3049l10 14-7-36-11-88z"/><path class="w12" d="M3116 2914l10-39-4-103-12 122z"/><path class="w8" d="M3054 2991l9-49-6-25-9 37zM3001 3003l10-62-7 29-9 5zM2983 2999l9-1-6-1-9-54zM2929 3030l10-55-7 10-9-1zM2856 2991l9 42-6 36-9-81zM2828 3037l9-47-6 26-9 53zM2781 3025l10 68 9-86-6-14-9 96-10-82z"/><path class="w7" d="M2992 2998l9 5-6-28-9 22zM2875 3064l9-39-7-39-9 60z"/><path class="w6" d="M2865 3033l10 31-7-18-9 23z"/><path class="w8" d="M3148 2931l8 14-7-3-7-27zM3052 2959l9-14 9 15-7-18-9 49-8-50zM2981 2980l9-10-7 29-9-10zM2963 3053l9-93-6-22-10 76zM2863 3006l9 59-7-32-9-42z"/><path class="w9" d="M3096 2950l9-12 9-3 8 28 8-1 11-87 7 56-6-16-10 28-6-68-10 39-9 7-9 31-8-47zM3070 2960l10-49-8 23-9 8zM3043 2971l9-12-6-18-9-3zM3008 2983l10-59-7 17-10 62zM2936 3004l9-57-6 28-10 55zM2890 3002l9 5 10-13 9 22 9 10-7-17-9-62-9 75-9-36-9 39zM2816 3020l10 67 9-100-7 50-9-28-10-30zM2797 3003l10 44-7-40-9 86zM2759 3036l10 8 9 12-7-70-8 114-10-78z"/><path class="w10" d="M3088 2906l8 44-6-45-8-12zM3036 2902l7 69-6-33-8-19zM3018 2924l8 62-6-64-9 19zM2972 2960l9 20-7 9-8-51zM2945 2947l9 43-6 2-9-17zM2835 2987l9 4 9 21 10-6-7-15-9 6-10-7-9 47zM2807 3047l9-27-7-41-9 28zM2787 2996l10 7-6 90-10-68zM2740 3017l10 19 9 0-6-14-9 41-10-14z"/><path class="w11" d="M3080 2911l8-5-6-13-10 41zM3026 2986l10-84-7 17-9 3zM2778 3056l9-60-6 29-10-39z"/><path class="w7" d="M2990 2970l8 52 10-39-7 20-9-5-9 1zM2954 2990l9 63-7-39-8-22zM2927 3026l9-22-7 26-9-21zM2881 3085l9-83-6 23-9 39z"/><path class="w6" d="M2872 3065l9 20-6-21-10-31z"/><path class="w9" d="M3156 2897l8 24-8 24-8-14zM3138 2916l9 2-6-43-11 87zM3111 2952l11-64 8 21-8 54-8-28-9 3zM3068 2958l9-29-7 31-9-15zM3051 2899l7 124-6-64-9 12zM3015 2979l9-7 9-9-7 23-8-62-10 59zM2897 3016l9 1 9-22 9 2-6 19-9-22-10 13-9-5zM2860 3040l9-42 9 24-6 43-9-59-10 6zM2832 3069l9-58-6-24-9 100zM2813 3042l9-22-6 0-9 27zM2775 3060l9-36-6 32-9-12z"/><path class="w10" d="M3147 2918l9-21-8 34-7-56zM3077 2929l9-4 7 68-5-87-8 5-10 49zM3033 2963l9-38-6-23-10 84zM2943 2994l9-17 9 9-7 4-9-43-9 57zM2850 3000l10 40-7-28-9-21zM2804 3033l9 9-6 5-10-44zM2784 3024l10 2-7-30-9 60zM2747 3064l9-5 10-21 9 22-6-16-10-8-9 0-10-19z"/><path class="w8" d="M3130 2909l8 7-8 46-8 1zM3058 3023l10-65-7-13-9 14zM2961 2986l9 23 9-19-7-30-9 93-9-63zM2924 2997l9 10 10-13-7 10-9 22-9-10zM2822 3020l10 49-6 18-10-67z"/><path class="w7" d="M3093 2993l8 28 10-69-6-14-9 12-8-44zM2996 3015l9-5 10-31-7 4-10 39-8-52zM2878 3022l10 31 9-37-7-14-9 83-9-20z"/><path class="w11" d="M3042 2925l9-26-8 72-7-69zM2841 3011l9-11-6-9-9-4zM2794 3026l10 7-7-30-10-7z"/><path class="w4" d="M2979 2990l7 128 10-103-6-45-9 10-9-20z"/><path class="w10" d="M3154 2914l8 1 8 12-6-6-8-24-9 21zM3118 2948l10-31-6-29-11 64zM3031 2917l8 64 10-84-7 28-9 38-9 9zM2949 2984l10-45 8 67-6-20-9-9-9 17zM2848 3031l9-8 9-13 10 10 9-6-7 8-9-24-9 42-10-40-9 11zM2800 3019l10 16-6-2-10-7zM2772 3037l9-16-6 39-9-22zM2753 3065l9-63-6 57-9 5z"/><path class="w9" d="M3136 2926l7 58 11-70-7 4-9-2-8-7zM3075 2931l8 46 9-9-6-43-9 4-9 29zM3057 2956l9 1-8 66-7-124zM3021 3002l10-85-7 55-9 7zM2931 3029l9-35 9-10-6 10-10 13-9-10zM2903 3032l10-23 9 38-7-52-9 22-9-1zM2885 3014l9-9-6 48-10-31zM2810 3035l10 20-7-13-9-9z"/><path class="w11" d="M3128 2917l8 9-6-17-8-21zM2781 3021l10-21 9 19-6 7-10-2-9 36zM2762 3002l10 35-6 1-10 21z"/><path class="w7" d="M3109 2969l9-21-7 4-10 69zM2829 3105l10-2-7-34-10-49z"/><path class="w6" d="M3100 3000l9-31-8 52-8-28z"/><path class="w8" d="M3092 2968l8 32-7-7-7-68zM3066 2957l9-26-7 27-10 65zM3003 3021l10-58 8 39-6-23-10 31-9 5zM2967 3006l9 5 9 26-6-47-9 19-9-23zM2922 3047l9-18-7-32-9-2zM2894 3005l9 27-6-16-9 37zM2839 3103l9-72-7-20-9 58zM2820 3055l9 50-7-85-9 22z"/><path class="w12" d="M3049 2897l8 59-6-57-9 26z"/><path class="w2" d="M2985 3037l7 95 11-111-7-6-10 103-7-128z"/><path class="w9" d="M3169 2908l8 37-7-18-8-12zM3124 2983l11-81-7 15-10 31zM3064 2958l8 26 9 6-6-59-9 26-9-1zM3019 2970l9 5 9 7-6-65-10 85-8-39zM2910 3057l9-65 9-5 10 10 8 35-6-38-9 35-9 18-9-38-10 23zM2873 3041l9 23 9-30 10 7-7-36-9 9-9 6-10-10zM2817 3063l9-40-6 32-10-20z"/><path class="w11" d="M3163 2852l6 56-7 7-8-1zM3046 2942l9-3 9 19-7-2-8-59-10 84zM2759 3041l10-8 9 17 10-8 10 28 9-56-7 5-9-19-10 21-9 16-10-35-9 63z"/><path class="w10" d="M3151 2937l12-85-9 62-11 70zM3135 2902l7 67-6-43-8-9zM3037 2982l9-40-7 39-8-64zM2966 2935l7 109-6-38-8-67zM2946 3032l10-102-7 54-9 10zM2854 3031l9-52 10 62-7-31-9 13-9 8zM2807 3014l10 49-7-28-10-16z"/><path class="w8" d="M3142 2969l9-32-8 47-7-58zM3081 2990l9-10 9-38-7 26-9 9-8-46zM3009 3044l10-74-6-7-10 58zM2901 3041l9 16-7-25-9-27zM2845 3052l9-21-6 0-9 72zM2826 3023l9 43-6 39-9-50z"/><path class="w7" d="M3115 2989l9-6-6-35-9 21zM3099 2942l7 65-6-7-8-32zM2973 3044l9 2 10-38-7 29-9-26-9-5zM2835 3066l10-14-6 51-10 2z"/><path class="w6" d="M3106 3007l9-18-6-20-9 31z"/><path class="w3" d="M2992 3008l8 30 9 6-6-23-11 111-7-95z"/><path class="w12" d="M2956 2930l10 5-7 4-10 45z"/><path class="w11" d="M3166 2947l11-69 9 5-9 62-8-37-6-56zM3045 2929l8 21-7-8-9 40zM2861 3005l9 44-7-70-9 52zM2766 3071l9-29 10 12-7-4-9-17-10 8z"/><path class="w10" d="M3159 2920l7 27-3-95-12 85zM3140 2955l11-48-9 62-7-67zM3053 2950l8 34 9-17 10-48-8 65-8-26-9-19-9 3zM3034 2999l11-70-8 53-9-7zM2926 3022l9-26 9 30-6-29-10-10-9 5zM2889 2999l9-24 9 45-6 21-10-7-9 30zM2870 3049l9-12-6 4-10-62zM2851 3044l10-39-7 26-9 21zM2785 3054l9-12 10-12 10 31 9-1 9-52 10 19-7 39-9-43-9 40-10-49-9 56-10-28-10 8z"/><path class="w9" d="M3151 2907l8 13-8 17-9 32zM3132 2959l8-4-5-53-11 81zM3096 2985l10-43-7 0-9 38zM3080 2919l7 81-6-10-9-6zM3026 2995l8 4-6-24-9-5zM2990 2988l9-33-7 53-10 38zM2972 2982l8 37-7 25-7-109zM2953 3064l10-73-7-61-10 102zM2916 3029l10-7-7-30-9 65zM2879 3037l10-38-7 65-9-23zM2842 3027l9 17-6 8-10 14z"/><path class="w7" d="M3113 3011l10-42 9-10-8 24-9 6-9 18zM3087 3000l9-15-6-5-9 10zM3007 3014l9-4-7 34-9-6z"/><path class="w8" d="M3106 2942l7 69-7-4-7-65zM3016 3010l10-15-7-25-10 74zM2999 2955l8 59-7 24-8-30zM2980 3019l10-31-8 58-9-2zM2944 3026l9 38-7-32-8-35zM2907 3020l9 9-6 28-9-16z"/><path class="w12" d="M2963 2991l9-9-6-47-10-5z"/><path class="w10" d="M3183 2927l7 35-4-79-9-5zM3130 2944l10-31 8 25 8 2 8 28 11-76-9 55-7-27-8-13-11 48-8 4-9 10zM3104 2934l9 4-7 4-10 43zM3077 2975l9-23-6-33-10 48zM3051 2970l8 20-6-40-8-21zM2932 3015l10-20 9 5-7 26-9-30-9 26zM2848 3032l10 3 9 23 10-69 9 55 9-2 9 24 10-44-7-2-9-45-9 24-10 38-9 12-9-44-10 39-9-17zM2830 3073l9-61-7-4-9 52zM2782 3032l10 49 9-19 10 8 9-15-6 6-10-31-10 12-9 12-10-12z"/><path class="w11" d="M3175 2892l8 35-6-49-11 69zM3042 2939l9 31-6-41-11 70zM2997 2971l9-16 9 7-8 52-8-59-9 33zM2839 3012l9 20-6-5-10-19zM2772 3021l10 11-7 10-9 29z"/><path class="w7" d="M3113 2938l6 109 11-103-7 25-10 42-7-69z"/><path class="w8" d="M3094 2989l10-55-8 51-9 15zM3023 3005l9-3-6-7-10 15zM2978 3056l9-38-7 1-8-37z"/><path class="w9" d="M3086 2952l8 37-7 11-7-81zM3059 2990l9-25 9 10-7-8-9 17-8-34zM3032 3002l10-63-8 60-8-4zM3015 2962l8 43-7 5-9 4zM2987 3018l10-47-7 17-10 31zM2951 3000l9 8 9 12 9 36-6-74-9 9-10 73-9-38zM2914 3022l9 51 9-58-6 7-10 7-9-9zM2820 3055l10 18-7-13-9 1z"/><path class="w10" d="M3190 2911l9-16-9 67-7-35zM3164 2921l8 9 10-20-7-18-11 76-8-28zM3137 2951l9-20-6-18-10 31zM3110 2981l10-39-7-4-9-4zM3058 2961l9-10 8 8 10-21 8 22-7-8-9 23-9-10-9 25-8-20zM3039 3011l9-30-6-42-10 63zM3021 2982l9 10-7 13-8-43zM2994 3019l9-46-6-2-10 47zM2958 2989l8 56-6-37-9-8zM2883 3025l9 44-6-25-9-55zM2864 3056l10-53-7 55-9-23zM2836 3085l9-94-6 21-9 61zM2788 3064l10 11 9-21 10-3 10 21-7-17-9 15-10-8-9 19-10-49z"/><path class="w11" d="M3182 2910l8 1-7 16-8-35zM3146 2931l10-22 8 12-8 19-8-2-8-25zM3048 2981l10-20-7 9-9-31zM3003 2973l9 20 9-11-6-20-9-7-9 16zM2939 2995l9 10 10-16-7 11-9-5-10 20zM2874 3003l9 22-6-36-10 69zM2845 2991l10 104-7-63-9-20zM2779 3065l9-1-6-32-10-11z"/><path class="w7" d="M3127 3006l10-55-7-7-11 103zM2975 3035l9 27 10-43-7-1-9 38-9-36z"/><path class="w8" d="M3120 2942l7 64-8 41-6-109zM2911 3054l9-3 9 12-6 10-9-51-10 44z"/><path class="w9" d="M3093 2960l9 15 8 6-6-47-10 55-8-37zM3030 2992l9 19-7-9-9 3zM2966 3045l9-10-6-15-9-12zM2929 3063l10-68-7 20-9 58zM2892 3069l10-49 9 34-7 12-9-24-9 2zM2855 3095l9-39-6-21-10-3zM2827 3072l9 13-6-12-10-18z"/><path class="w11" d="M3196 2951l10-59-7 3-9 16zM3172 2889l8 31-8 10-8-9zM3144 2944l10-25 8 5-6-15-10 22-9 20zM3073 2990l10-44-8 13-8-8zM3001 2991l9-24 9 33-7-7-9-20-9 46zM2955 2971l9 55-6-37-10 16zM2909 3022l9-39-7 71-9-34z"/><path class="w10" d="M3180 2920l6 52 10-21-6-40-8-1-10 20zM3083 2946l7 79 10-60 10-33 8 16 8 21-6-27-10 39-8-6-9-15-8-22-10 21zM3054 3022l10-47 9 15-6-39-9 10-10 20zM3019 3000l9-33 9 44-7-19-9-10-9 11zM2936 3036l10-52-7 11-10 68zM2871 3055l9 20 10-29 9-28 10 4-7-2-10 49-9-44-9-22-10 53zM2843 3062l9-14-7-57-9 94zM2814 3072l10 8-7-29-10 3zM2785 3040l10 89-7-65-9 1z"/><path class="w12" d="M3162 2924l10-35-8 32-8-12zM2946 2984l9-13-7 34-9-10z"/><path class="w9" d="M3126 2969l9 3 9-28-7 7-10 55-7-64zM3037 3011l9-11 8 22-6-41-9 30-9-19zM2964 3026l9 4 10-45-8 50-9 10-8-56zM2918 2983l9 71-7-3-9 3zM2852 3048l10 62-7-15-10-104zM2824 3080l9-2 10-16-7 23-9-13-10-21zM2795 3129l10-24 9-33-7-18-9 21-10-11z"/><path class="w8" d="M2983 2985l8 82 10-76-7 28-10 43-9-27zM2927 3054l9-18-7 27-9-12zM2862 3110l9-55-7 1-9 39z"/><path class="w11" d="M3204 2912l8 19-6-39-10 59zM3168 2967l10-54 8 41-6-34-8-31-10 35zM3108 2933l8 23 8 23-6-31-8-16-10 33zM3081 2948l8 18-6-20-10 44zM3008 2992l9 17 10-82 8 82-7-42-9 33-9-33-9 24zM2962 2981l9 25-7 20-9-55zM2896 3055l10-52 9 56 10-76 9 47-7 24-9-71-9 39-10-4-9 28zM2811 3015l9 12-6 45-9 33z"/><path class="w9" d="M3186 2954l7 28 11-70-8 39-10 21-6-52zM3089 2966l8 40 11-73-8 32-10 60-7-79zM3035 3009l8 7 10-46 8 40 10-20-7-15-10 47-8-22-9 11-9-44zM2971 3006l8 61 10-55 9 0 10-20-7-1-10 76-8-82-10 45-9-4zM2934 3030l9 16-7-10-9 18zM2878 3089l9-72-7 58-9-20zM2859 3043l9 17-6 50-10-62zM2830 3070l10 28 9-10-6-26-10 16-9 2zM2802 3107l9-92-6 90-10 24z"/><path class="w10" d="M3124 2979l10-33 8 22 9-19 8 16 9 2-6-43-8-5-10 25-9 28-9-3-8-21zM3071 2990l10-42-8 42-9-15zM2943 3046l10-42-7-20-10 52zM2887 3017l9 38-6-9-10 29zM2849 3088l10-45-7 5-9 14zM2820 3027l10 43-6 10-10-8zM2792 3062l10 45-7 22-10-89z"/><path class="w12" d="M2953 3004l9-23-7-10-9 13z"/><path class="w8" d="M2868 3060l10 29-7-34-9 55z"/><path class="w11" d="M3211 2919l9-1-8 13-8-19zM3167 2943l11-64-10 88-9-2zM3140 2952l9-4 9-11-7 12-9 19-8-22zM3078 2970l9 14-6-36-10 42zM3052 2933l8 46-7-9-10 46zM3033 2978l9 19-7 12-8-82zM3015 2963l9 33-7 13-9-17zM2950 3004l9-6 9 35-6-52-9 23-10 42zM2903 3067l10-54-7-10-10 52zM2798 2994l10 77 10 13-7-69-9 92-10-45z"/><path class="w10" d="M3194 2915l8 4 9 0-7-7-11 70-7-28zM3158 2937l9 6-8 22-8-16zM3123 2956l7 48 10-52-6-6-10 33-8-23zM3103 3029l11-89-6-7-11 73zM3087 2984l8 20-6-38-8-18zM3060 2979l8 22 10-31-7 20-10 20-8-40zM3042 2997l10-64-9 83-8-7zM2996 3013l9 26 10-76-7 29-10 20-9 0zM2968 3033l9 34-6-61-9-25zM2931 3089l10-70 9-15-7 42-9-16-9-47zM2913 3013l8 91-6-45-9-56zM2894 3034l9 33-7-12-9-38zM2856 3038l9 8 10 7-7 7-9-17-10 45zM2837 3052l9 34-6 12-10-28z"/><path class="w12" d="M3178 2879l8 20 8 16-8 39-8-41-10 54zM3114 2940l9 16-7 0-8-23zM3024 2996l9-18-6-51-10 82zM2827 2998l10 54-7 18-10-43z"/><path class="w9" d="M3095 3004l8 25-6-23-8-40zM2986 3051l10-38-7-1-10 55zM2921 3104l10-15-6-106-10 76zM2875 3053l9 66 10-85-7-17-9 72-10-29zM2846 3086l10-48-7 50-9 10z"/><path class="w8" d="M2977 3067l9-16-7 16-8-61z"/><path class="w13" d="M2818 3084l9-86-7 29-9-12z"/><path class="w11" d="M3216 2972l11-56-7 2-9 1zM3200 2934l8 29-6-44-8-4zM3165 2937l8 38-6-32-9-6zM3120 3004l10-41-7-7-9-16zM3084 2998l11-62-8 48-9-14zM3068 2937l7 65-7-1-8-22zM3031 2988l8 25-6-35-9 18zM3012 3009l10-63-7 17-10 76zM2994 2976l9 22-7 15-10 38zM2947 3050l10-25-7-21-9 15zM2853 3081l9-51 10 41 10-61-7 43-10-7-9-8-10 48zM2815 3077l9-34-6 41-10-13z"/><path class="w10" d="M3208 2963l8 9-5-53-9 0zM3130 2963l8 28 10-63-8 24-10 52-7-48zM3095 2936l7 63-7 5-8-20zM3075 3002l9-4-6-28-10 31zM3039 3013l8 39 10-21-5-98-10 64-9-19zM3003 2998l9 11-7 30-9-26zM2910 3104l9-68-6-23-10 54zM2882 3010l9 72-7 37-9-66zM2843 3075l10 6-7 5-9-34z"/><path class="w12" d="M3192 2912l8 22-6-19-8-16zM3173 2975l10-55-5-41-11 64zM3148 2928l10-28 7 37-7 0-9 11-9 4zM3057 3031l11-94-8 42-8-46zM3022 2946l9 42-7 8-9-33zM2957 3025l9-41 9 21-7 28-9-35-9 6zM2834 3019l9 56-6-23-10-54z"/><path class="w13" d="M3183 2920l9-8-6-13-8-20zM2824 3043l10-24-7-21-9 86zM2804 3006l11 71-7-6-10-77z"/><path class="w8" d="M3102 2999l7 60 11-55-6-64-11 89-8-25z"/><path class="w9" d="M2975 3005l9 68 10-97-8 75-9 16-9-34zM2938 3071l9-21-6-31-10 70zM2919 3036l9 87-7-19-8-91zM2891 3082l9-19 10 41-7-37-9-33-10 85z"/><path class="w7" d="M2928 3123l10-52-7 18-10 15z"/></g>
<path d="M1397.4 1635.3L1638.5 1544.9M1237.4 1509.5L1397.4 1635.3M1237.4 1509.5L1229.1 1316.3M1418.5 1631.4L1413.1 1627.2M1381.3 1627.4L1387.7 1625.1M1472.6 1611.1L1467.1 1607M1344.9 1598.7L1351.3 1596.4M1525.3 1591.2L1519.7 1587.3M1309.8 1571.1L1316.2 1568.9M1576.5 1572L1570.9 1568.1M1276 1544.5L1282.4 1542.3M1626.5 1553.2L1620.8 1549.4M1243.4 1518.9L1249.8 1516.7M1232.8 1500.8L1239.2 1498.7M1231.2 1465.1L1237.7 1463.1M1229.6 1428.7L1236.1 1426.7M1228 1391.9L1234.6 1389.9M1226.3 1352.7L1232.9 1350.8" stroke="#111" stroke-width="0.85" fill="none"/>
<g class="tk" font-size="14"><text x="1423.9" y="1655.7">−10</text><text x="1373.7" y="1650.8">−10</text><text x="1477.7" y="1635.1">−5</text><text x="1337.3" y="1621.7">−5</text><text x="1530" y="1614.9">0</text><text x="1302.2" y="1593.6">0</text><text x="1581" y="1595.3">5</text><text x="1268.4" y="1566.6">5</text><text x="1630.7" y="1576.2">10</text><text x="1235.8" y="1540.5">10</text></g>
<text class="al" x="1544.4" y="1634.8" font-size="16.4">x</text>
<text class="al" x="1282" y="1608.1" font-size="16.4">y</text>
<text class="zl" transform="translate(1211.9 1413.7) rotate(87.5)" font-size="15.6">Error</text>
<linearGradient id="g6" x1="0" y1="0" x2="0" y2="1"><stop offset="0%" stop-color="#b40426"/><stop offset="6.2%" stop-color="#ca3b37"/><stop offset="12.5%" stop-color="#dd5f4b"/><stop offset="18.8%" stop-color="#eb7d62"/><stop offset="25%" stop-color="#f4987a"/><stop offset="31.2%" stop-color="#f7b093"/><stop offset="37.5%" stop-color="#f5c4ac"/><stop offset="43.8%" stop-color="#ecd3c5"/><stop offset="50%" stop-color="#dddcdc"/><stop offset="56.2%" stop-color="#ccd9ed"/><stop offset="62.5%" stop-color="#b9d0f9"/><stop offset="68.8%" stop-color="#a3c2fe"/><stop offset="75%" stop-color="#8db0fe"/><stop offset="81.2%" stop-color="#779af7"/><stop offset="87.5%" stop-color="#6282ea"/><stop offset="93.8%" stop-color="#4e68d8"/><stop offset="100%" stop-color="#3b4cc0"/></linearGradient>
<rect x="1662.8" y="1296.4" width="19.4" height="283.3" fill="url(#g6)" stroke="#111" stroke-width="0.85"/>
<path d="M1682.2 1549.7h3.3M1682.2 1494.1h3.3M1682.2 1438.4h3.3M1682.2 1382.8h3.3M1682.2 1327.2h3.3" stroke="#111" stroke-width="0.85" fill="none"/>
<g class="cb" font-size="12.0"><text x="1689.1" y="1553.2">−1.0</text><text x="1689.1" y="1497.6">−0.5</text><text x="1689.1" y="1442">0.0</text><text x="1689.1" y="1386.4">0.5</text><text x="1689.1" y="1330.8">1.0</text></g>
<text class="cb" font-size="12.0" x="1683" y="1293.4" text-anchor="end">×10<tspan dy="-4.6" font-size="8.4">−2</tspan></text>
<text class="cap" transform="translate(1459.9 1726.4) scale(1.06 1)" font-size="42" textLength="453.7" lengthAdjust="spacing">(g) POD-DeepONet Error</text>
</g>
<g id="ph">
<path d="M641.6 2083.6L872.5 2007.2M872.5 2007.2L1042.6 2118.9M633.3 1890.5L873.8 1822.1M873.8 1822.1L1051.4 1922.2M872.5 2007.2L873.8 1822.1M1042.6 2118.9L1051.4 1922.2M801.6 2209.4L641.6 2083.6M801.6 2209.4L1042.6 2118.9M641.6 2083.6L633.3 1890.5" stroke="#f0f0f0" stroke-width="0.9" fill="none"/>
<path d="M819.2 2202.8L658.4 2078M658.4 2078L650.8 1885.5M789.7 2200L1030 2110.6M1030 2110.6L1038.1 1914.7M873.3 2182.5L710 2060.9M710 2060.9L704.7 1870.2M753.2 2171.3L991.3 2085.2M991.3 2085.2L997.7 1892M925.9 2162.7L760.3 2044.3M760.3 2044.3L757.1 1855.3M718.2 2143.7L954.1 2060.8M954.1 2060.8L958.8 1870M977.1 2143.5L809.4 2028M809.4 2028L808.2 1840.8M684.4 2117.2L918.1 2037.1M918.1 2037.1L921.3 1848.9M1026.9 2124.8L857.4 2012.2M857.4 2012.2L858.1 1826.6M651.8 2091.6L883.3 2014.3M883.3 2014.3L885.1 1828.5M640.1 2047.1L872.7 1972.2M872.7 1972.2L1044.3 2081.8M638.5 2009.9L873 1936.5M873 1936.5L1046 2044M636.8 1971.4L873.2 1899.6M873.2 1899.6L1047.7 2004.7M635.1 1931.2L873.5 1861.1M873.5 1861.1L1049.5 1963.7M633.3 1890.5L873.8 1822.1M873.8 1822.1L1051.4 1922.2" stroke="#b6b6b6" stroke-width="0.85" fill="none"/>
<g transform="scale(0.5)" stroke-width="1.3" stroke-linejoin="round"><path class="v1" d="M1727 4045l7-9 8-11-5-3-8 6-8 12zM1673 4063l8-2 7-8 8-7 8 2 7-6 8 3-5-4-8-6-8 8-7 3-8 10-8-6-8 9zM1634 4073l8-5 8 3-6-4-8-4-7 11zM1539 4109l8-7 8-14 8 5 8-3 8-3 8 3 8-11 7-1 8 1 8-2 8 2-5-8-8-2-8 1-8 2-8 1-8 16-8-2-7-1-8 1-8 6-8 1-8 7zM1499 4117l8-5 8 0-5 0-8 3-8 3zM1482 4115l9 6-6-3-8-10zM1442 4140l8-7 8-11-5 0-8 1-8 10zM1409 4152l8-16 8 0 9 5-6-1-8-2-8-8-8 13zM1342 4168l9-3 8-2 8 0 9-1 8-6 8 2-5-8-8-1-9 2-8 8-8-4-9-4-8 5z"/><path class="v0" d="M1719 4045l8 0-6-5-7 1zM1650 4071l7-1 8-4 8-3-6-4-7 4-8 3-8 1zM1626 4079l8-6-5 1-8-3zM1515 4112l8 3 8-3 8-3-5-8-8 3-8 7-8 1zM1491 4121l8-4-5 1-9 0zM1434 4141l8-1-5-7-9 7zM1392 4158l9-2 8-4-5-9-9 5-8 2z"/><path class="v2" d="M1458 4122l8-8 8-3 8 4-5-7-8-3-8-1-8 18z"/><path class="v1" d="M1732 4047l8-3 7-4-5-15-8 11-7 9zM1686 4059l8-3 7 4 8-7 8-1 7-5-5-2-8-3-7 6-8-2-8 7-7 8zM1639 4079l8-4-5-7-8 5zM1552 4108l8-3 8-2 8-12 8 0 8 3 8-8 8 3 8-3 8-5-6-4-8 2-8-1-7 1-8 11-8-3-8 3-8 3-8-5-8 14zM1488 4112l8 8 8-2 8-14 8 5 8 4-5 2-8-3-8 0-8 5-8 4-9-6zM1447 4142l8-13 8-7-5 0-8 11-8 7zM1414 4155l8-12 9 5 8 0-5-7-9-5-8 0-8 16zM1381 4161l8 0-5-5-8 6zM1347 4171l9-3 8 5-5-10-8 2-9 3z"/><path class="v0" d="M1724 4047l8 0-5-2-8 0zM1647 4075l8 1 8-6 7-2 8-3 8-6-5 2-8 2-8 3-8 4-7 1-8-3zM1624 4081l8 1 7-3-5-6-8 6-8-2zM1528 4113l8-1 8-5 8 1-5-6-8 7-8 3-8 3zM1439 4148l8-6-5-2-8 1zM1389 4161l9 1 8-3 8-4-5-3-8 4-9 2-8-2zM1364 4173l9-5 8-7-5 1-9 1-8 0z"/><path class="v2" d="M1463 4122l8 0 9-2 8-8-6 3-8-4-8 3-8 8z"/><path class="v0" d="M1699 4067l8-5 8-2 7-4 8-3 8-2 7-2 8-1-6-8-7 4-8 3-8 0-7 5-8 1-8 7-7-4zM1637 4083l8 0 8-1 7-6 8-2-5-4-8 6-8-1-8 4-7 3zM1613 4091l8-3-5-2-8 3zM1394 4164l9 2 8-5 8-6-5 0-8 4-8 3-9-1z"/><path class="v1" d="M1668 4074l8-10 8-4 7 5 8 2-5-11-8 3-8 6-8 3-7 2zM1621 4088l8-6 8 1-5-1-8-1-8 5zM1525 4112l9-1 8-4 8-2 8-3 8 10 8-11 8 0 7-8 8 0 8 2 8-4-5-2-8-3-8 8-8-3-8 0-8 12-8 2-8 3-8-1-8 5-8 1-8-4zM1493 4123l8-1 8-9-5 5-8 2-8-8zM1419 4155l9-5 8-7 8 2 8-5 8-10 8-3 9 0-6-5-8 0-8 7-8 13-8 6-8 0-9-5-8 12zM1352 4175l9 2 8-2 8-14 9 5 8-2-5-3-8 0-8 7-9 5-8-5-9 3z"/><path class="v2" d="M1509 4113l8-3 8 2-5-3-8-5-8 14zM1477 4127l8-10 8 6-5-11-8 8-9 2z"/><path class="v0" d="M1697 4070l8-1 7-4 8-4 8-4 7 3 8-5 8 0 7-7-5 0-8 1-7 2-8 2-8 3-7 4-8 2-8 5-8-2zM1650 4081l8 5 8-3 8-6-6-3-8 2-7 6-8 1zM1611 4101l8-3 8-4-6-6-8 3-8 4zM1391 4174l9-3 8-8-5 3-9-2-8 2zM1366 4181l9-3-6-3-8 2z"/><path class="v1" d="M1674 4077l7-5 8-5 8 3-6-5-7-5-8 4-8 10zM1627 4094l7-4 8-9 8 0-5 2-8 0-8-1-8 6zM1547 4107l8 0 8 1 8-4 8 2 8-3 8 3 8-10 8 5-6-6-8-2-8 0-7 8-8 0-8 11-8-10-8 3-8 2zM1408 4163l8-2 9-1 8-13 8-3 8-3 8-1-5 0-8 5-8-2-8 7-9 5-8 6-8 5zM1375 4178l8 0 8-4-5-8-9-5-8 14zM1358 4186l8-5-5-4-9-2z"/><path class="v2" d="M1457 4140l8-15 8-11 9 5 8-1 8 1 8-3 8-8 9 2 8-2 8-4 8 3-5 0-8 4-9 1-8-2-8 3-8 9-8 1-8-6-8 10-9 0-8 3-8 10z"/><path class="v0" d="M1733 4063l8-1 8-1 7-9 8 4-6-8-7 7-8 0-8 5-7-3zM1702 4073l8-1 8-2-6-5-7 4-8 1zM1656 4092l7-5 8-6 8 3 8-5-6-7-7 5-8 6-8 3-8-5zM1616 4106l8-4 8-7 8 2-6-7-7 4-8 4-8 3zM1363 4189l8-6 9 2 8-5 9-4-6-2-8 4-8 0-9 3-8 5z"/><path class="v1" d="M1718 4070l8-8 7 1-5-6-8 4-8 4zM1687 4079l8-1 7-5-5-3-8-3-8 5zM1640 4097l8-6 8 1-6-11-8 0-8 9zM1552 4109l8-2 8 5 8-2 8-4 8-1 8 2 8-1 8 0-5-5-8-5-8 10-8-3-8 3-8-2-8 4-8-1-8 0zM1397 4176l8-8 8-7 8 3 9-11 8-8-5 2-8 13-9 1-8 2-8 8-9 3z"/><path class="v2" d="M1511 4110l9 2 8-8 8-1 8 6 8 0-5-2-8-3-8 4-8 2-9-2-8 8zM1438 4145l8 0 8-4 9 1 8-6-6-11-8 15-8 1-8 3-8 3z"/><path class="v3" d="M1471 4136l8-6 8-14 8 1 8-7 8 0-5 6-8 3-8-1-8 1-9-5-8 11z"/><path class="v1" d="M1762 4062l7-9-5 3-8-4zM1723 4070l8 0 8-3-6-4-7-1-8 8zM1692 4084l8-9 8 3-6-5-7 5-8 1zM1574 4111l8 3 8 0 8-1 8-3 8-5 8 0 8-6 7-2 8 2 8-7 8-3 8-4 8 4-6-8-8 6-7 5-8-1-8 6-8-2-8 7-8 4-8 0-8 1-8-2-8 1-8 4-8 2zM1368 4190l9-5 8-2 8-6 9 2 8 1 8-12 8-11-5 7-8-3-8 7-8 8-9 4-8 5-9-2-8 6z"/><path class="v0" d="M1739 4067l7-3 8-6 8 4-6-10-7 9-8 1-8 1zM1708 4078l8-1 7-7-5 0-8 2-8 1zM1677 4089l8-2 7-3-5-5-8 5-8-3z"/><path class="v2" d="M1541 4110l8-3 9 2 8-1 8 3-6 1-8-5-8 2-8 0-8-6zM1426 4157l9-10 8 5 8-8 8-6 9-6 8-3 8-4-5 5-8 6-8 6-9-1-8 4-8 0-8 8-9 11z"/><path class="v3" d="M1484 4125l8-13 8 4 9 2 8-6 8-6 8 2 8 2-5-7-8 1-8 8-9-2-8 0-8 7-8-1-8 14z"/><path class="v0" d="M1713 4084l8-6 8 1 8-4 7-3 8-3 8-1 7-2 8-6-6-7-7 9-8-4-8 6-7 3-8 3-8 0-7 7-8 1zM1682 4092l8 0 8-5-6-3-7 3-8 2z"/><path class="v1" d="M1698 4087l8-4 7 1-5-6-8-3-8 9zM1587 4106l8 0 8 5 8-2 8 2 8-6 8-6 8 1 8-2 8-4 8-5 7 2 8 1-5-3-8-4-8 4-8 3-8 7-8-2-7 2-8 6-8 0-8 5-8 3-8 1-8 0zM1373 4191l9-6 8 5 9-10 8-3 8-2 9 7 8-15-6-10-8 11-8 12-8-1-9-2-8 6-8 2-9 5z"/><path class="v2" d="M1571 4098l8 4 8 4-5 8-8-3-8-3zM1432 4167l8-15 8-1 9 4 8-10-6-7-8 6-8 8-8-5-9 10z"/><path class="v3" d="M1506 4112l8 2 8-4 8-6 8 0 9 2 8-9 8 6 8-5-5 10-8 1-9-2-8 3-8-2-8-2-8 6-8 6-9-2zM1465 4145l8-12 8-8 8-7-5 7-8 4-8 3-9 6z"/><path class="v4" d="M1489 4118l8-8 9 2-6 4-8-4-8 13z"/><path class="v1" d="M1765 4071l8-10 7 5-5-6-8 6-7 2zM1719 4082l8-4 7 1-5 0-8-1-8 6zM1617 4111l8-2 7-8 8-4 8-1 8 1 8-3 8-5 8 7 8-1-6-3-8-1-7-2-8 5-8 4-8 2-8-1-8 6-8 6-8-2zM1379 4194l8-9 8 0 9-3 8 2 9-6-6-3-8 2-8 3-9 10-8-5-9 6z"/><path class="v0" d="M1734 4079l8 1 8-3 7-4 8-2-5-3-8 1-8 3-7 3-8 4zM1688 4095l8-3 7 0 8-2 8-8-6 2-7-1-8 4-8 5-8 0z"/><path class="v2" d="M1584 4105l8 4 8-7 9 1 8 8-6-2-8 2-8-5-8 0-8-4zM1421 4178l8-16 8 1 8-8 8-8 9-1-5 9-9-4-8 1-8 15-8 15-9-7z"/><path class="v3" d="M1576 4094l8 11-5-3-8-4zM1462 4146l8-10 8-2-5-1-8 12-8 10z"/><path class="v4" d="M1519 4098l8-2 8 1 9-3 8-2 8-3 8-2 8 7-5 4-8 5-8-6-8 9-9-2-8 0-8 6-8 4zM1478 4134l8-16 8-7 9-7-6 6-8 8-8 7-8 8z"/><path class="v5" d="M1503 4104l8-7 8 1-5 16-8-2-9-2z"/><path class="v1" d="M1771 4070l7-4 8 3-6-3-7-5-8 10zM1717 4092l7-10 8 0 8-1 8-6 7 2-5 0-8 3-8-1-7-1-8 4-8 8zM1678 4087l7 8 8 5-5-5-8 1-8-7zM1646 4103l8 0 8-3 8-7-6 1-8 3-8-1-8 1zM1401 4187l8-8 8-1 9 7-5-7-9 6-8-2-9 3z"/><path class="v0" d="M1755 4077l8-3 8-4-6 1-8 2-7 4zM1693 4100l8-1 8-6 8-1-6-2-8 2-7 0-8 3z"/><path class="v2" d="M1670 4093l8-6-6 2-8 5zM1614 4100l8 0 8-6 8 6 8 3-6-6-8 4-7 8-8 2-8-8zM1426 4185l8-12 8-4 8-16-5 2-8 8-8-1-8 16zM1384 4191l8-11 9 7-6-2-8 0-8 9z"/><path class="v3" d="M1590 4092l8-3 8 3 8 8-5 3-9-1-8 7-8-4zM1450 4153l8-16 9 2 8-6 8 1-5 0-8 2-8 10-9 1-8 8z"/><path class="v4" d="M1582 4088l8 4-6 13-8-11zM1483 4134l8-21-5 5-8 16z"/><path class="v5" d="M1541 4090l8-10 8-1 8 7 8-6 9 8-6 6-8-7-8 2-8 3-8 2-9 3zM1491 4113l8-14-5 12-8 7z"/><path class="v6" d="M1499 4099l9-12 8-1 8-4 8-1 9 9-6 7-8-1-8 2-8-1-8 7-9 7z"/><path class="v1" d="M1691 4096l8 3 8 2 7-9 8-5 8 0 8-5 8-7 7-3 8-7 8 5 7 8 8-1 8-10-6 2-8-3-7 4-8 4-8 3-7-2-8 6-8 1-8 0-7 10-8 1-8 6-8 1-8-5zM1423 4189l8 1 8-12-5-5-8 12-9-7z"/><path class="v2" d="M1651 4096l8 7 8-6 8-7 8 2 8 4-6-1-7-8-8 6-8 7-8 3-8 0zM1439 4178l9-15-6 6-8 4zM1388 4180l9 4 9 2 8 1 9 2-6-11-8 1-8 8-9-7-8 11z"/><path class="v3" d="M1619 4094l8-7 8 10 8-7 8 6-5 7-8-3-8-6-8 6-8 0zM1448 4163l8-16-6 6-8 16z"/><path class="v4" d="M1603 4085l8 4 8 5-5 6-8-8-8-3zM1456 4147l8-10 8 5 8-16-5 7-8 6-9-2-8 16z"/><path class="v5" d="M1587 4078l8 6 8 1-5 4-8 3-8-4zM1480 4126l8-15-5 23-8-1z"/><path class="v6" d="M1570 4069l9 3 8 6-5 10-9-8-8 6zM1488 4111l8-12-5 14-8 21z"/><path class="v7" d="M1546 4072l8-3 8-3 8 3-5 17-8-7-8 1-8 10zM1521 4074l8-3-5 11-8 4zM1496 4099l8-20-5 20-8 14z"/><path class="v8" d="M1529 4071l8-12 9 13-5 18-9-9-8 1zM1504 4079l9-9 8 4-5 12-8 1-9 12z"/><path class="v1" d="M1790 4078l7-5-5-6-8 10zM1774 4073l8 9-6-4-7-8zM1696 4101l8 3 8 0 8-1 8-8 8-10 7 4 8-10 8 2-6-9-7 3-8 7-8 5-8 0-8 5-7 9-8-2-8-3zM1420 4188l8 7 9-6 8-9-6-2-8 12-8-1-9-2z"/><path class="v0" d="M1782 4082l8-4-6-1-8 1z"/><path class="v2" d="M1759 4081l8-5 7-3-5-3-8-5-8 7zM1665 4095l8-6 8 6 8 4 7 2-5-5-8-4-8-2-8 7-8 6zM1445 4180l8-14-5-3-9 15zM1394 4186l8-1 9 5 9-2-6-1-8-1-9-2-9-4z"/><path class="v3" d="M1657 4084l8 11-6 8-8-7zM1453 4166l8-18-5-1-8 16z"/><path class="v4" d="M1617 4082l8 2 8-5 8 3 8-1 8 3-6 12-8-6-8 7-8-10-8 7-8-5zM1461 4148l8-8 8-5-5 7-8-5-8 10z"/><path class="v5" d="M1600 4078l9 2 8 2-6 7-8-4-8-1zM1477 4135l8-21-5 12-8 16z"/><path class="v6" d="M1584 4069l8 9 8 0-5 6-8-6-8-6zM1485 4114l8-18-5 15-8 15z"/><path class="v7" d="M1576 4060l8 9-5 3-9-3zM1493 4096l9-12-6 15-8 12z"/><path class="v8" d="M1551 4052l8-3 9 7 8 4-6 9-8-3-8 3-8 3zM1502 4084l8-9-6 4-8 20z"/><path class="v9" d="M1510 4075l8-18 8-6 8 3 9-10 8 8-5 20-9-13-8 12-8 3-8-4-9 9z"/><path class="v1" d="M1702 4100l8 4 8 0 7 4 8-10 8-14 8 3 8 5 7-3 8-4 8-4 8 0 7-2 8-3-6-3-7 5-8 4-8-9-7 3-8 5-8-2-8 10-7-4-8 10-8 8-8 1-8 0-8-3zM1425 4194l9 3 8-10-5 2-9 6-8-7z"/><path class="v2" d="M1686 4093l8 3 8 4-6 1-7-2-8-4zM1442 4187l8-6 8-9-5-6-8 14-8 9zM1400 4202l8-5 8-5 9 2-5-6-9 2-9-5-8 1z"/><path class="v3" d="M1662 4085l8 8 8 2 8-2-5 2-8-6-8 6-8-11zM1458 4172l8-19-5-5-8 18z"/><path class="v4" d="M1654 4079l8 6-5-1-8-3zM1466 4153l8-13-5 0-8 8z"/><path class="v5" d="M1638 4070l8 0 8 9-5 2-8 1-8-3zM1474 4140l9-15-6 10-8 5z"/><path class="v6" d="M1606 4069l8 4 8-7 8-1 8 5-5 9-8 5-8-2-8-2-9-2zM1483 4125l7-23-5 12-8 21z"/><path class="v7" d="M1589 4062l9-7 8 14-6 9-8 0-8-9z"/><path class="v8" d="M1581 4052l8 10-5 7-8-9zM1490 4102l8-21-5 15-8 18z"/><path class="v9" d="M1573 4049l8 3-5 8-8-4zM1498 4081l8-20-4 23-9 12z"/><path class="v10" d="M1556 4032l8 3 9 14-5 7-9-7-8 3zM1506 4061l9-11 8-9-5 16-8 18-8 9z"/><path class="v11" d="M1523 4041l8-12 8-1 9-4 8 8-5 20-8-8-9 10-8-3-8 6z"/><path class="v1" d="M1755 4092l7-2 8-2 8-2 7 0 8 2 8-3 8-6-6-3-8 3-7 2-8 0-8 4-8 4-7 3-8-5zM1708 4108l7 1 8 2 8-5 8-5 8-10-6-7-8 14-8 10-7-4-8 0-8-4zM1431 4207l8-16-5 6-9-3z"/><path class="v2" d="M1747 4091l8 1-6-5-8-3zM1700 4097l8 11-6-8-8-4zM1439 4191l8-7 8-9-5 6-8 6-8 10zM1405 4210l9-2 8-3 9 2-6-13-9-2-8 5-8 5z"/><path class="v3" d="M1676 4089l8 3 8 1 8 4-6-1-8-3-8 2-8-2zM1455 4175l8-11-5 8-8 9z"/><path class="v4" d="M1668 4073l8 16-6 4-8-8zM1463 4164l9-14-6 3-8 19z"/><path class="v5" d="M1652 4073l8 2 8-2-6 12-8-6-8-9zM1472 4150l8-11-6 1-8 13z"/><path class="v6" d="M1644 4066l8 7-6-3-8 0zM1480 4139l8-27-5 13-9 15z"/><path class="v7" d="M1611 4063l8-5 9-1 8 4 8 5-6 4-8-5-8 1-8 7-8-4z"/><path class="v8" d="M1603 4046l8 17-5 6-8-14zM1488 4112l8-21-6 11-7 23z"/><path class="v9" d="M1595 4037l8 9-5 9-9 7zM1496 4091l8-18-6 8-8 21z"/><path class="v10" d="M1586 4032l9 5-6 25-8-10zM1504 4073l8-25-6 13-8 20z"/><path class="v11" d="M1570 4018l8 2 8 12-5 20-8-3-9-14z"/><path class="v12" d="M1561 4013l9 5-6 17-8-3zM1512 4048l8-16 8-14-5 23-8 9-9 11z"/><path class="v13" d="M1528 4018l8-9 9-3 8-4 8 11-5 19-8-8-9 4-8 1-8 12z"/><path class="v1" d="M1807 4087l7-5-5-3-8 6zM1713 4104l8 1 8 4 8-15 8 10 7-2 8-2 8-2 8 0 7-2 8-3 8-2-6-3-8-2-7 0-8 2-8 2-7 2-8-1-8 10-8 5-8 5-8-2-7-1zM1411 4223l8-8 8 0 9-8-5 0-9-2-8 3-9 2z"/><path class="v0" d="M1799 4091l8-4-6-2-8 3z"/><path class="v2" d="M1705 4103l8 1-5 4-8-11zM1436 4207l8-12 8-14-5 3-8 7-8 16z"/><path class="v3" d="M1697 4089l8 14-5-6-8-4zM1452 4181l9-2 8-17-6 2-8 11-8 9z"/><path class="v4" d="M1682 4081l7 6 8 2-5 4-8-1-8-3zM1469 4162l8-12-5 0-9 14z"/><path class="v6" d="M1665 4062l9 0 8 19-6 8-8-16-8 2z"/><path class="v7" d="M1657 4053l8 9-5 13-8-2zM1485 4134l8-34-5 12-8 27z"/><path class="v8" d="M1617 4049l8 2 8-3 8-5 8 1 8 9-5 20-8-7-8-5-8-4-9 1-8 5zM1493 4100l8-14-5 5-8 21z"/><path class="v9" d="M1609 4043l8 6-6 14-8-17z"/><path class="v11" d="M1600 4022l9 21-6 3-8-9z"/><path class="v12" d="M1592 4016l8 6-5 15-9-5zM1509 4058l8-22-5 12-8 25z"/><path class="v13" d="M1575 3997l8 8 9 11-6 16-8-12-8-2z"/><path class="v14" d="M1567 3989l8 8-5 21-9-5zM1517 4036l8-29-5 25-8 16z"/><path class="v15" d="M1558 3972l9 17-6 24-8-11zM1525 4007l8-16 8-9 9-3-5 27-9 3-8 9-8 14z"/><path class="v16" d="M1550 3979l8-7-5 30-8 4z"/><path class="v10" d="M1501 4086l8-28-5 15-8 18z"/><path class="v5" d="M1477 4150l8-16-5 5-8 11z"/><path class="v1" d="M1797 4100l8-11 7 6 8-2-6-11-7 5-8 4-8 2zM1750 4103l8-7 8 3 8-1 7-2 8 6-6-6-7 2-8 0-8 2-8 2-7 2zM1416 4224l8-5 9-10 8-6-5 4-9 8-8 0-8 8z"/><path class="v0" d="M1789 4102l8-2-6-7-8 3z"/><path class="v2" d="M1719 4098l8 7 8 3 7-6 8 1-5 1-8-10-8 15-8-4-8-1zM1441 4203l8-7 9-8-6-7-8 14-8 12z"/><path class="v3" d="M1711 4094l8 4-6 6-8-1zM1458 4188l8-12-5 3-9 2z"/><path class="v4" d="M1703 4083l8 11-6 9-8-14zM1466 4176l8-19-5 5-8 17z"/><path class="v5" d="M1695 4073l8 10-6 6-8-2zM1474 4157l8-12-5 5-8 12z"/><path class="v6" d="M1687 4060l8 13-6 14-7-6zM1482 4145l8-26-5 15-8 16z"/><path class="v7" d="M1679 4055l8 5-5 21-8-19z"/><path class="v8" d="M1663 4036l8 9 8 10-5 7-9 0-8-9zM1490 4119l8-28-5 9-8 34z"/><path class="v9" d="M1647 4033l8 0 8 3-6 17-8-9-8-1z"/><path class="v10" d="M1622 4040l8-3 9-8 8 4-6 10-8 5-8 3-8-2zM1498 4091l8-20-5 15-8 14z"/><path class="v11" d="M1614 4023l8 17-5 9-8-6zM1506 4071l8-24-5 11-8 28z"/><path class="v12" d="M1606 4009l8 14-5 20-9-21z"/><path class="v13" d="M1597 4005l9 4-6 13-8-6zM1514 4047l8-25-5 14-8 22z"/><path class="v14" d="M1589 3987l8 18-5 11-9-11z"/><path class="v15" d="M1580 3980l9 7-6 18-8-8zM1522 4022l8-26-5 11-8 29z"/><path class="v16" d="M1572 3966l8 14-5 17-8-8z"/><path class="v17" d="M1563 3964l9 2-5 23-9-17zM1530 3996l8-31-5 26-8 16z"/><path class="v18" d="M1538 3965l8-13 9 3 8 9-5 8-8 7-9 3-8 9z"/><path class="v0" d="M1818 4099l8-5-6-1-8 2zM1795 4106l7-2-5-4-8 2z"/><path class="v1" d="M1802 4104l8-4 8-1-6-4-7-6-8 11zM1748 4109l8 3 8-11 7 5 8-3 8 2 8 1-6-4-8-6-7 2-8 1-8-3-8 7-8-1zM1421 4222l9 2-6-5-8 5z"/><path class="v2" d="M1732 4096l8 12 8 1-6-7-7 6-8-3zM1430 4224l8-15 8-4 9-10-6 1-8 7-8 6-9 10z"/><path class="v3" d="M1725 4092l7 4-5 9-8-7zM1455 4195l8-9 8-12-5 2-8 12-9 8z"/><path class="v4" d="M1717 4079l8 13-6 6-8-4zM1471 4174l8-17-5 0-8 19z"/><path class="v5" d="M1709 4067l8 12-6 15-8-11z"/><path class="v6" d="M1701 4058l8 9-6 16-8-10zM1479 4157l8-24-5 12-8 12z"/><path class="v7" d="M1693 4050l8 8-6 15-8-13zM1487 4133l8-24-5 10-8 26z"/><path class="v8" d="M1685 4032l8 18-6 10-8-5z"/><path class="v10" d="M1677 4018l8 14-6 23-8-10z"/><path class="v11" d="M1660 4003l9 6 8 9-6 27-8-9-8-3zM1628 4026l8-5-6 16-8 3zM1503 4081l8-22-5 12-8 20z"/><path class="v12" d="M1636 4021l8-13 8 0 8-5-5 30-8 0-8-4-9 8zM1620 4015l8 11-6 14-8-17zM1511 4059l8-19-5 7-8 24z"/><path class="v13" d="M1611 3997l9 18-6 8-8-14z"/><path class="v15" d="M1603 3979l8 18-5 12-9-4z"/><path class="v16" d="M1594 3973l9 6-6 26-8-18zM1527 4007l8-28-5 17-8 26z"/><path class="v17" d="M1586 3963l8 10-5 14-9-7z"/><path class="v18" d="M1577 3952l9 11-6 17-8-14z"/><path class="v19" d="M1560 3935l9 9 8 8-5 14-9-2-8-9zM1535 3979l8-30-5 16-8 31z"/><path class="v20" d="M1543 3949l9-14 8 0-5 20-9-3-8 13z"/><path class="v14" d="M1519 4040l8-33-5 15-8 25z"/><path class="v9" d="M1495 4109l8-28-5 10-8 28z"/><path class="v0" d="M1816 4099l8 3 7-4-5-4-8 5-8 1zM1793 4113l7-3-5-4-8-1z"/><path class="v1" d="M1800 4110l8-11 8 0-6 1-8 4-7 2zM1777 4103l8 5 8 5-6-8-8-2-8 3zM1427 4235l8-14-5 3-9-2z"/><path class="v2" d="M1746 4099l8 3 8 4 7-3 8 0-6 3-7-5-8 11-8-3-8-1zM1435 4221l8-6 9-8-6-2-8 4-8 15z"/><path class="v3" d="M1730 4095l8 0 8 4-6 9-8-12-7-4zM1452 4207l8-20 8-5-5 4-8 9-9 10z"/><path class="v5" d="M1722 4079l8 16-5-3-8-13zM1476 4167l9-10-6 0-8 17z"/><path class="v6" d="M1714 4060l8 19-5 0-8-12zM1485 4157l8-18-6-6-8 24z"/><path class="v7" d="M1706 4056l8 4-5 7-8-9z"/><path class="v8" d="M1698 4038l8 18-5 2-8-8zM1493 4139l8-25-6-5-8 24z"/><path class="v10" d="M1690 4012l8 26-5 12-8-18zM1501 4114l8-25-6-8-8 28z"/><path class="v12" d="M1682 3994l8 18-5 20-8-14z"/><path class="v14" d="M1642 4000l8-15 8-8 8-5 8 1 8 21-5 24-8-9-9-6-8 5-8 0-8 13zM1617 3993l8 14-5 8-9-18z"/><path class="v13" d="M1625 4007l8-5 9-2-6 21-8 5-8-11zM1517 4061l8-22-6 1-8 19z"/><path class="v15" d="M1608 3980l9 13-6 4-8-18zM1525 4039l8-41-6 9-8 33z"/><path class="v17" d="M1600 3966l8 14-5-1-9-6z"/><path class="v18" d="M1591 3947l9 19-6 7-8-10zM1533 3998l8-33-6 14-8 28z"/><path class="v19" d="M1583 3935l8 12-5 16-9-11z"/><path class="v20" d="M1574 3921l9 14-6 17-8-8zM1541 3965l8-39-6 23-8 30z"/><path class="v21" d="M1566 3911l8 10-5 23-9-9zM1549 3926l8-11-5 20-9 14z"/><path class="v22" d="M1557 3915l9-4-6 24-8 0z"/><path class="v11" d="M1509 4089l8-28-6-2-8 22z"/><path class="v4" d="M1468 4182l8-15-5 7-8 12z"/><path class="v1" d="M1829 4105l8-8-6 1-7 4zM1806 4113l8-8 7 5-5-11-8 0-8 11zM1791 4107l7 7-5-1-8-5zM1432 4241l9-2 8-13-6-11-8 6-8 14z"/><path class="v0" d="M1821 4110l8-5-5-3-8-3zM1798 4114l8-1-6-3-7 3z"/><path class="v2" d="M1775 4094l8 9 8 4-6 1-8-5-8 0zM1449 4226l8-19-5 0-9 8z"/><path class="v3" d="M1744 4094l8 6 7 3 8-8 8-1-6 9-7 3-8-4-8-3-8-4zM1457 4207l8-9-5-11-8 20z"/><path class="v4" d="M1736 4088l8 6-6 1-8 0zM1465 4198l9-12 8-14-6-5-8 15-8 5z"/><path class="v5" d="M1728 4079l8 9-6 7-8-16zM1482 4172l8-11-5-4-9 10z"/><path class="v7" d="M1720 4056l8 23-6 0-8-19z"/><path class="v8" d="M1712 4038l8 18-6 4-8-4zM1498 4136l8-21-5-1-8 25z"/><path class="v10" d="M1704 4017l8 21-6 18-8-18zM1506 4115l8-30-5 4-8 25z"/><path class="v13" d="M1696 3977l8 40-6 21-8-26z"/><path class="v15" d="M1688 3956l8 21-6 35-8-18zM1622 3990l9 11 8-16 8-12-5 27-9 2-8 5-8-14z"/><path class="v17" d="M1655 3950l9-9 8-8 8 2 8 21-6 38-8-21-8-1-8 5-8 8zM1606 3966l8 11-6 3-8-14z"/><path class="v16" d="M1647 3973l8-23-5 35-8 15zM1614 3977l8 13-5 3-9-13zM1530 4027l8-31-5 2-8 41z"/><path class="v19" d="M1597 3940l9 26-6 0-9-19z"/><path class="v21" d="M1588 3920l9 20-6 7-8-12zM1546 3963l8-44-5 7-8 39z"/><path class="v22" d="M1580 3904l8 16-5 15-9-14z"/><path class="v23" d="M1554 3919l9-22 8-2 9 9-6 17-8-10-9 4-8 11z"/><path class="v18" d="M1538 3996l8-33-5 2-8 33z"/><path class="v14" d="M1522 4059l8-32-5 12-8 22z"/><path class="v12" d="M1514 4085l8-26-5 2-8 28z"/><path class="v6" d="M1490 4161l8-25-5 3-8 18z"/><path class="v1" d="M1835 4110l8-4-6-9-8 8zM1796 4107l8 6 8 5 8-7 7 0-6-1-7-5-8 8-8 1-7-7zM1446 4241l8-11-5-4-8 13z"/><path class="v0" d="M1827 4111l8-1-6-5-8 5zM1438 4248l8-7-5-2-9 2z"/><path class="v2" d="M1781 4104l8-3 7 6-5 0-8-4-8-9zM1454 4230l9-18-6-5-8 19z"/><path class="v3" d="M1757 4097l8 2 8-6 8 11-6-10-8 1-8 8-7-3zM1463 4212l8-13-6-1-8 9z"/><path class="v4" d="M1750 4092l7 5-5 3-8-6zM1471 4199l8-12 8-6-5-9-8 14-9 12z"/><path class="v5" d="M1742 4072l8 20-6 2-8-6zM1487 4181l9-12-6-8-8 11z"/><path class="v6" d="M1734 4063l8 9-6 16-8-9z"/><path class="v7" d="M1726 4056l8 7-6 16-8-23zM1496 4169l8-33-6 0-8 25z"/><path class="v9" d="M1718 4027l8 29-6 0-8-18z"/><path class="v12" d="M1710 4001l8 26-6 11-8-21zM1520 4084l8-25-6 0-8 26z"/><path class="v15" d="M1702 3954l8 47-6 16-8-40z"/><path class="v18" d="M1694 3917l8 37-6 23-8-21zM1611 3963l9 14-6 0-8-11z"/><path class="v21" d="M1686 3883l8 34-6 39-8-21zM1661 3928l8-33 8-13-5 51-8 8-9 9zM1594 3915l9 30-6-5-9-20z"/><path class="v22" d="M1677 3882l9 1-6 52-8-2zM1552 3958l8-40-6 1-8 44z"/><path class="v19" d="M1653 3953l8-25-6 22-8 23zM1603 3945l8 18-5 3-9-26zM1544 3995l8-37-6 5-8 33z"/><path class="v17" d="M1645 3972l8-19-6 20-8 12zM1536 4028l8-33-6 1-8 31z"/><path class="v16" d="M1620 3977l8 2 8 3 9-10-6 13-8 16-9-11-8-13z"/><path class="v23" d="M1585 3892l9 23-6 5-8-16z"/><path class="v24" d="M1577 3883l8 9-5 12-9-9zM1560 3918l8-36-5 15-9 22z"/><path class="v25" d="M1568 3882l9 1-6 12-8 2z"/><path class="v14" d="M1528 4059l8-31-6-1-8 32z"/><path class="v10" d="M1512 4114l8-30-6 1-8 30z"/><path class="v8" d="M1504 4136l8-22-6 1-8 21z"/><path class="v0" d="M1833 4115l8-2 7-3-5-4-8 4-8 1z"/><path class="v1" d="M1802 4109l8 7 8 1 7-4 8 2-6-4-7 0-8 7-8-5-8-6zM1443 4246l8-10 9-3-6-3-8 11-8 7z"/><path class="v2" d="M1787 4104l7 2 8 3-6-2-7-6-8 3zM1460 4233l8-21-5 0-9 18z"/><path class="v3" d="M1771 4109l8-2 8-3-6 0-8-11-8 6zM1468 4212l8-8-5-5-8 13z"/><path class="v4" d="M1763 4092l8 17-6-10-8-2zM1476 4204l9-7 8-11-6-5-8 6-8 12z"/><path class="v5" d="M1755 4069l8 23-6 5-7-5zM1493 4186l8-15-5-2-9 12z"/><path class="v7" d="M1748 4053l7 16-5 23-8-20zM1501 4171l8-27-5-8-8 33z"/><path class="v8" d="M1732 4046l8 2 8 5-6 19-8-9-8-7zM1509 4144l8-24-5-6-8 22z"/><path class="v10" d="M1724 4017l8 29-6 10-8-29zM1517 4120l8-32-5-4-8 30z"/><path class="v13" d="M1716 3976l8 41-6 10-8-26z"/><path class="v17" d="M1708 3930l8 46-6 25-8-47zM1625 3981l9 4 8-11 8-10-5 8-9 10-8-3-8-2zM1541 4031l8-36-5 0-8 33z"/><path class="v21" d="M1700 3884l8 46-6 24-8-37zM1600 3922l8 31-5-8-9-30z"/><path class="v24" d="M1692 3840l8 44-6 33-8-34zM1667 3905l8-49-6 39-8 33zM1591 3899l9 23-6-7-9-23zM1566 3924l8-34-6-8-8 36z"/><path class="v26" d="M1675 3856l8-29 9 13-6 43-9-1-8 13z"/><path class="v20" d="M1658 3940l9-35-6 23-8 25zM1549 3995l8-40-5 3-8 37z"/><path class="v18" d="M1650 3964l8-24-5 13-8 19zM1617 3971l8 10-5-4-9-14z"/><path class="v19" d="M1608 3953l9 18-6-8-8-18z"/><path class="v25" d="M1574 3890l8-9 9 18-6-7-8-9-9-1z"/><path class="v22" d="M1557 3955l9-31-6-6-8 40z"/><path class="v14" d="M1533 4065l8-34-5-3-8 31z"/><path class="v12" d="M1525 4088l8-23-5-6-8 25z"/><path class="v0" d="M1839 4121l7-6 8-3-6-2-7 3-8 2z"/><path class="v1" d="M1816 4115l7 7 8-1 8 0-6-6-8-2-7 4-8-1zM1449 4254l8-12-6-6-8 10z"/><path class="v2" d="M1784 4117l8-2 8 6 8-8 8 2-6 1-8-7-8-3-7-2-8 3zM1457 4242l8-12 8-12-5-6-8 21-9 3z"/><path class="v3" d="M1777 4110l7 7-5-10-8 2zM1473 4218l9-16 8-2-5-3-9 7-8 8z"/><path class="v4" d="M1769 4084l8 26-6-1-8-17zM1490 4200l9-11-6-3-8 11z"/><path class="v7" d="M1761 4050l8 34-6 8-8-23z"/><path class="v9" d="M1754 4025l7 25-6 19-7-16z"/><path class="v10" d="M1738 4028l8 0 8-3-6 28-8-5-8-2zM1523 4129l8-28-6-13-8 32z"/><path class="v11" d="M1730 4010l8 18-6 18-8-29z"/><path class="v15" d="M1722 3970l8 40-6 7-8-41z"/><path class="v19" d="M1714 3911l8 59-6 6-8-46zM1614 3964l9 12-6-5-9-18zM1555 4008l8-39-6-14-8 40z"/><path class="v24" d="M1706 3849l8 62-6 19-8-46zM1572 3942l8-31-6-21-8 34z"/><path class="v28" d="M1698 3799l8 50-6 35-8-44z"/><path class="v29" d="M1681 3827l8-41 9 13-6 41-9-13-8 29z"/><path class="v26" d="M1673 3876l8-49-6 29-8 49z"/><path class="v23" d="M1664 3928l9-52-6 29-9 35zM1597 3908l9 31-6-17-9-23z"/><path class="v20" d="M1656 3956l8-28-6 12-8 24z"/><path class="v18" d="M1648 3986l8-30-6 8-8 10z"/><path class="v17" d="M1639 3994l9-8-6-12-8 11zM1623 3976l8 16-6-11-8-10zM1547 4040l8-32-6-13-8 36z"/><path class="v16" d="M1631 3992l8 2-5-9-9-4z"/><path class="v21" d="M1606 3939l8 25-6-11-8-31z"/><path class="v25" d="M1580 3911l8-11 9 8-6-9-9-18-8 9z"/><path class="v22" d="M1563 3969l9-27-6-18-9 31z"/><path class="v14" d="M1539 4075l8-35-6-9-8 34z"/><path class="v12" d="M1531 4101l8-26-6-10-8 23z"/><path class="v8" d="M1515 4158l8-29-6-9-8 24z"/><path class="v6" d="M1507 4176l8-18-6-14-8 27z"/><path class="v5" d="M1499 4189l8-13-6-5-8 15z"/><path class="v0" d="M1837 4123l8-1 7 1 8-9-6-2-8 3-7 6-8 0z"/><path class="v1" d="M1829 4122l8 1-6-2-8 1zM1454 4261l8-18-5-1-8 12z"/><path class="v2" d="M1790 4121l8 5 8 0 8-9 8-8 7 13-6 0-7-7-8-2-8 8-8-6-8 2zM1462 4243l9-3 8-15-6-7-8 12-8 12z"/><path class="v3" d="M1782 4107l8 14-6-4-7-7zM1479 4225l9-3 8-3-6-19-8 2-9 16z"/><path class="v5" d="M1775 4072l7 35-5 3-8-26zM1504 4199l9-6-6-17-8 13z"/><path class="v9" d="M1767 4033l8 39-6 12-8-34z"/><path class="v11" d="M1760 4003l7 30-6 17-7-25zM1537 4104l8-16-6-13-8 26z"/><path class="v12" d="M1735 4006l8 6 9-6 8-3-6 22-8 3-8 0-8-18z"/><path class="v15" d="M1728 3971l7 35-5 4-8-40z"/><path class="v19" d="M1720 3910l8 61-6-1-8-59zM1561 4019l8-33-6-17-8 39z"/><path class="v25" d="M1712 3838l8 72-6 1-8-62z"/><path class="v30" d="M1704 3779l8 59-6 11-8-50z"/><path class="v31" d="M1687 3819l8-43 9 3-6 20-9-13-8 41z"/><path class="v27" d="M1678 3873l9-54-6 8-8 49z"/><path class="v23" d="M1670 3934l8-61-5 3-9 52zM1594 3930l9 10-6-32-9-8zM1577 3958l9-17-6-30-8 31z"/><path class="v20" d="M1662 3978l8-44-6-6-8 28zM1611 3956l9 14-6-6-8-25z"/><path class="v17" d="M1654 4001l8-23-6-22-8 30zM1628 3994l9 10-6-12-8-16z"/><path class="v16" d="M1637 4004l8 5 9-8-6-15-9 8-8-2zM1553 4047l8-28-6-11-8 32z"/><path class="v18" d="M1620 3970l8 24-5-18-9-12z"/><path class="v22" d="M1603 3940l8 16-5-17-9-31z"/><path class="v24" d="M1586 3941l8-11-6-30-8 11z"/><path class="v21" d="M1569 3986l8-28-5-16-9 27z"/><path class="v14" d="M1545 4088l8-41-6-7-8 35z"/><path class="v10" d="M1529 4139l8-35-6-3-8 28z"/><path class="v8" d="M1521 4162l8-23-6-10-8 29z"/><path class="v6" d="M1513 4193l8-31-6-4-8 18z"/><path class="v4" d="M1496 4219l8-20-5-10-9 11z"/><path class="v0" d="M1858 4122l8 0-6-8-8 9z"/><path class="v1" d="M1835 4119l8 0 7 2 8 1-6 1-7-1-8 1-8-1zM1804 4134l7-5 8-1-5-11-8 9-8 0zM1460 4264l8-6 8-7-5-11-9 3-8 18z"/><path class="v2" d="M1819 4128l8-7 8-2-6 3-7-13-8 8zM1796 4132l8 2-6-8-8-5zM1476 4251l9-12 8-5 9-6-6-9-8 3-9 3-8 15z"/><path class="v3" d="M1788 4106l8 26-6-11-8-14zM1502 4228l8-15-6-14-8 20z"/><path class="v7" d="M1781 4060l7 46-6 1-7-35zM1526 4170l8-28-5-3-8 23z"/><path class="v11" d="M1773 4006l8 54-6 12-8-39zM1542 4117l9-29-6 0-8 16z"/><path class="v13" d="M1766 3978l7 28-6 27-7-30zM1741 4018l8-7 9-18-6 13-9 6-8-6z"/><path class="v14" d="M1758 3993l8-15-6 25-8 3zM1551 4088l8-33-6-8-8 41z"/><path class="v15" d="M1733 3997l8 21-6-12-7-35zM1643 4016l8 3 8-7-5-11-9 8-8-5z"/><path class="v19" d="M1725 3937l8 60-5-26-8-61zM1668 3988l8-48-6-6-8 44zM1617 3987l9 7-6-24-9-14z"/><path class="v25" d="M1718 3861l7 76-5-27-8-72z"/><path class="v29" d="M1709 3817l9 44-6-23-8-59z"/><path class="v31" d="M1701 3802l8 15-5-38-9-3z"/><path class="v30" d="M1693 3835l8-33-6-26-8 43z"/><path class="v27" d="M1684 3893l9-58-6-16-9 54z"/><path class="v23" d="M1676 3940l8-47-6-20-8 61z"/><path class="v16" d="M1659 4012l9-24-6-10-8 23zM1634 4001l9 15-6-12-9-10zM1559 4055l8-14-6-22-8 28z"/><path class="v18" d="M1626 3994l8 7-6-7-8-24zM1567 4041l8-35-6-20-8 33z"/><path class="v20" d="M1609 3972l8 15-6-31-8-16zM1575 4006l8-23-6-25-8 28z"/><path class="v21" d="M1600 3958l9 14-6-32-9-10zM1583 3983l9-24-6-18-9 17z"/><path class="v22" d="M1592 3959l8-1-6-28-8 11z"/><path class="v10" d="M1534 4142l8-25-5-13-8 35z"/><path class="v6" d="M1518 4198l8-28-5-8-8 31z"/><path class="v4" d="M1510 4213l8-15-5-5-9 6z"/><path class="v0" d="M1864 4124l8-1-6-1-8 0z"/><path class="v1" d="M1809 4141l8-1 8 0 8-12 8-5 7 4 8 2 8-5-6-2-8-1-7-2-8 0-8 2-8 7-8 1-7 5zM1465 4262l9 4 8-2 8-16 9 3-6-17-8 5-9 12-8 7-8 6z"/><path class="v2" d="M1802 4130l7 11-5-7-8-2zM1499 4251l8-10 9-16-6-12-8 15-9 6z"/><path class="v4" d="M1794 4105l8 25-6 2-8-26z"/><path class="v8" d="M1787 4042l7 63-6 1-7-46z"/><path class="v13" d="M1780 3982l7 60-6 18-8-54zM1739 4013l8 18-6-13-8-21zM1556 4104l9-28-6-21-8 33z"/><path class="v15" d="M1772 3961l8 21-7 24-7-28zM1648 4030l9-11 8 4-6-11-8 7-8-3z"/><path class="v16" d="M1764 3977l8-16-6 17-8 15zM1665 4023l8-19-5-16-9 24zM1640 4018l8 12-5-14-9-15zM1573 4061l8-33-6-22-8 35z"/><path class="v14" d="M1755 4014l9-37-6 16-9 18zM1565 4076l8-15-6-20-8 14z"/><path class="v12" d="M1747 4031l8-17-6-3-8 7z"/><path class="v17" d="M1731 3964l8 49-6-16-8-60zM1623 4005l9 9 8 4-6-17-8-7-9-7z"/><path class="v23" d="M1723 3909l8 55-6-27-7-76z"/><path class="v27" d="M1715 3869l8 40-5-48-9-44z"/><path class="v29" d="M1707 3862l8 7-6-52-8-15z"/><path class="v28" d="M1698 3885l9-23-6-60-8 33z"/><path class="v26" d="M1690 3929l8-44-5-50-9 58z"/><path class="v22" d="M1682 3971l8-42-6-36-8 47z"/><path class="v19" d="M1673 4004l9-33-6-31-8 48z"/><path class="v18" d="M1615 3988l8 17-6-18-8-15zM1581 4028l8-18-6-27-8 23z"/><path class="v20" d="M1589 4010l9-19 8-10 9 7-6-16-9-14-8 1-9 24z"/><path class="v11" d="M1548 4137l8-33-5-16-9 29z"/><path class="v9" d="M1540 4155l8-18-6-20-8 25z"/><path class="v7" d="M1532 4181l8-26-6-13-8 28z"/><path class="v5" d="M1524 4209l8-28-6-11-8 28z"/><path class="v3" d="M1516 4225l8-16-6-11-8 15z"/><path class="v0" d="M1870 4132l7-3-5-6-8 1zM1479 4266l9-4-6 2-8 2z"/><path class="v1" d="M1815 4146l8-1 8-6 8-10 8 0 7-1 8-2 8 6-6-8-8 5-8-2-7-4-8 5-8 12-8 0-8 1zM1488 4262l8 3 9-2 8-16-6-6-8 10-9-3-8 16zM1471 4273l8-7-5 0-9-4z"/><path class="v2" d="M1808 4128l7 18-6-5-7-11zM1513 4247l8-22-5 0-9 16z"/><path class="v4" d="M1800 4100l8 28-6 2-8-25z"/><path class="v9" d="M1793 4032l7 68-6 5-7-63z"/><path class="v15" d="M1786 3959l7 73-6 10-7-60zM1671 4047l8-25-6-18-8 19zM1638 4044l8 5-6-31-8-4zM1579 4073l8-17-6-28-8 33z"/><path class="v17" d="M1778 3938l8 21-6 23-8-21zM1679 4022l9-30-6-21-9 33zM1621 4016l8 8-6-19-8-17zM1595 4041l9-13-6-37-9 19z"/><path class="v18" d="M1770 3955l8-17-6 23-8 16zM1604 4028l8-11 9-1-6-28-9-7-8 10z"/><path class="v16" d="M1761 4013l9-58-6 22-9 37zM1737 4005l8 32-6-24-8-49zM1629 4024l9 20-6-30-9-9zM1587 4056l8-15-6-31-8 18z"/><path class="v12" d="M1745 4037l8 9 8-33-6 1-8 17-8-18zM1562 4111l8-17-5-18-9 28z"/><path class="v20" d="M1729 3955l8 50-6-41-8-55zM1688 3992l8-22-6-41-8 42z"/><path class="v23" d="M1721 3921l8 34-6-46-8-40z"/><path class="v24" d="M1704 3934l9-14 8 1-6-52-8-7-9 23z"/><path class="v22" d="M1696 3970l8-36-6-49-8 44z"/><path class="v14" d="M1646 4049l8 1 9-4 8 1-6-24-8-4-9 11-8-12z"/><path class="v13" d="M1570 4094l9-21-6-12-8 15z"/><path class="v10" d="M1554 4143l8-32-6-7-8 33z"/><path class="v8" d="M1546 4176l8-33-6-6-8 18z"/><path class="v6" d="M1538 4190l8-14-6-21-8 26z"/><path class="v5" d="M1529 4209l9-19-6-9-8 28z"/><path class="v3" d="M1521 4225l8-16-5 0-8 16z"/><path class="v1" d="M1821 4152l8-6 8 0 8-10 7-5 8 1 8-4 8 1 7 3-6-3-7 3-8-6-8 2-7 1-8 0-8 10-8 6-8 1zM1510 4264l9-18-6 1-8 16zM1476 4278l9-10 8 0-5-6-9 4-8 7z"/><path class="v2" d="M1813 4130l8 22-6-6-7-18zM1519 4246l8-11-6-10-8 22z"/><path class="v4" d="M1806 4105l7 25-5-2-8-28zM1535 4217l8-12-5-15-9 19z"/><path class="v9" d="M1799 4032l7 73-6-5-7-68z"/><path class="v15" d="M1792 3958l7 74-6 0-7-73zM1685 4056l8-20-5-44-9 30zM1635 4054l8 8-5-18-9-20zM1601 4074l9-15-6-31-9 13z"/><path class="v19" d="M1776 3958l8-29 8 29-6 1-8-21-8 17zM1702 4007l8-7-6-66-8 36z"/><path class="v16" d="M1767 4020l9-62-6-3-9 58zM1610 4059l8-14 8-8 9 17-6-30-8-8-9 1-8 11z"/><path class="v12" d="M1758 4063l9-43-6-7-8 33zM1576 4123l9-17-6-33-9 21z"/><path class="v11" d="M1750 4055l8 8-5-17-8-9zM1568 4138l8-15-6-29-8 17z"/><path class="v13" d="M1743 4024l7 31-5-18-8-32zM1643 4062l9-6 8 12 8 0 9-5 8-7-6-34-8 25-8-1-9 4-8-1-8-5zM1585 4106l8-18-6-32-8 17z"/><path class="v17" d="M1735 3998l8 26-6-19-8-50zM1693 4036l9-29-6-37-8 22z"/><path class="v20" d="M1710 4000l8-16 8-6 9 20-6-43-8-34-8-1-9 14z"/><path class="v14" d="M1593 4088l8-14-6-33-8 15z"/><path class="v10" d="M1560 4158l8-20-6-27-8 32z"/><path class="v7" d="M1552 4184l8-26-6-15-8 33z"/><path class="v5" d="M1543 4205l9-21-6-8-8 14z"/><path class="v3" d="M1527 4235l8-18-6-8-8 16z"/><path class="v0" d="M1493 4268l9-1 8-3-5-1-9 2-8-3z"/><path class="v1" d="M1827 4157l8-3 7-5 8-4 8-2 8-5 8 0 7 1 8-12-6 5-7-3-8-1-8 4-8-1-7 5-8 10-8 0-8 6zM1516 4265l8-16-5-3-9 18zM1482 4280l8-12 9 7-6-7-8 0-9 10z"/><path class="v2" d="M1819 4146l8 11-6-5-8-22zM1524 4249l9-8-6-6-8 11z"/><path class="v4" d="M1812 4105l7 41-6-16-7-25zM1541 4235l8-18-6-12-8 12z"/><path class="v10" d="M1805 4032l7 73-6 0-7-73zM1756 4084l8-4-6-17-8-8zM1582 4145l9-15-6-24-9 17z"/><path class="v15" d="M1798 3970l7 62-6 0-7-74zM1707 4049l9-2-6-47-8 7z"/><path class="v19" d="M1782 3962l8-29 8 37-6-12-8-29-8 29z"/><path class="v16" d="M1773 4027l9-65-6-4-9 62zM1716 4047l8-17 8 6 8 18-5-56-9-20-8 6-8 16z"/><path class="v12" d="M1764 4080l9-53-6-7-9 43zM1748 4063l8 21-6-29-7-31zM1683 4085l8-4-6-25-8 7zM1649 4087l9 2 8 5-6-26-8-12-9 6zM1599 4106l8-7-6-25-8 14z"/><path class="v14" d="M1740 4054l8 9-5-39-8-26zM1699 4067l8-18-5-42-9 29zM1616 4085l8-8 8-9 9 5-6-19-9-17-8 8-8 14z"/><path class="v13" d="M1691 4081l8-14-6-31-8 20zM1641 4073l8 14-6-25-8-8zM1607 4099l9-14-6-26-9 15z"/><path class="v11" d="M1666 4094l8-16 9 7-6-22-9 5-8 0zM1591 4130l8-24-6-18-8 18z"/><path class="v9" d="M1574 4163l8-18-6-22-8 15z"/><path class="v8" d="M1566 4179l8-16-6-25-8 20z"/><path class="v6" d="M1558 4208l8-29-6-21-8 26z"/><path class="v5" d="M1549 4217l9-9-6-24-9 21z"/><path class="v3" d="M1533 4241l8-6-6-18-8 18z"/><path class="v0" d="M1499 4275l8-5 9-5-6-1-8 3-9 1z"/><path class="v1" d="M1840 4162l8-12 8-4 8-1 8 1 8-1 7-8 8 4-6-14-8 12-7-1-8 0-8 5-8 2-8 4-7 5zM1825 4152l8 8-6-3-8-11zM1487 4279l9-3 8 1 9-11 8-4 9-8-6-5-8 16-9 5-8 5-9-7-8 12z"/><path class="v0" d="M1833 4160l7 2-5-8-8 3z"/><path class="v4" d="M1817 4121l8 31-6-6-7-41zM1555 4231l8-14-5-9-9 9z"/><path class="v9" d="M1811 4049l6 72-5-16-7-73zM1754 4103l8 9-6-28-8-21zM1588 4165l9-12-6-23-9 15z"/><path class="v15" d="M1803 3981l8 68-6-17-7-62z"/><path class="v18" d="M1796 3949l7 32-5-11-8-37z"/><path class="v19" d="M1787 3985l9-36-6-16-8 29z"/><path class="v16" d="M1779 4044l8-59-5-23-9 65z"/><path class="v11" d="M1770 4099l9-55-6-17-9 53zM1613 4129l9-17-6-27-9 14z"/><path class="v8" d="M1762 4112l8-13-6-19-8 4zM1580 4187l8-22-6-20-8 18z"/><path class="v10" d="M1746 4087l8 16-6-40-8-9zM1655 4112l8-3 9 6 8-5 8 8 9-5 8-16-6-30-8 14-8 4-9-7-8 16-8-5-9-2zM1597 4153l8-12 8-12-6-30-8 7-8 24z"/><path class="v12" d="M1705 4097l8-6 8-4 9-11 8 8 8 3-6-33-8-18-8-6-8 17-9 2-8 18zM1622 4112l8-6 8-10 9 4 8 12-6-25-8-14-9-5-8 9-8 8z"/><path class="v6" d="M1572 4207l8-20-6-24-8 16z"/><path class="v5" d="M1563 4217l9-10-6-28-8 29z"/><path class="v3" d="M1547 4244l8-13-6-14-8 18z"/><path class="v2" d="M1530 4254l8-5 9-5-6-9-8 6-9 8z"/><path class="v1" d="M1885 4151l8-5 8 1-6-6-8-4-7 8zM1846 4164l8-5 8-5 8 2 8-2-6-8-8-1-8 1-8 4-8 12zM1831 4165l7 2-5-7-8-8zM1493 4288l8-2 9-14 8 2-5-8-9 11-8-1-9 3z"/><path class="v0" d="M1878 4154l7-3-5-6-8 1zM1838 4167l8-3-6-2-7-2z"/><path class="v3" d="M1823 4138l8 27-6-13-8-31zM1561 4242l8-11-6-14-8 14z"/><path class="v8" d="M1816 4074l7 64-6-17-6-72zM1751 4120l8 12-5-29-8-16zM1678 4136l8-8 8 11 8-2 9-6-6-34-8 16-9 5-8-8-8 5zM1602 4166l9-5-6-20-8 12z"/><path class="v14" d="M1809 4014l7 60-5-25-8-68zM1784 4063l9-58-6-20-8 59z"/><path class="v17" d="M1793 4005l8-25 8 34-6-33-7-32-9 36z"/><path class="v10" d="M1776 4114l8-51-5-19-9 55zM1619 4150l8-13 9-11 8 0 9-4 8 7-6-17-8-12-9-4-8 10-8 6-9 17z"/><path class="v7" d="M1759 4132l8-3 9-15-6-15-8 13-8-9zM1594 4189l8-23-5-13-9 12z"/><path class="v9" d="M1711 4131l8-2 8-11 8-1 8 0 8 3-5-33-8-3-8-8-9 11-8 4-8 6zM1661 4129l8 5 9 2-6-21-9-6-8 3zM1611 4161l8-11-6-21-8 12z"/><path class="v6" d="M1586 4196l8-7-6-24-8 22z"/><path class="v5" d="M1577 4217l9-21-6-9-8 20z"/><path class="v4" d="M1569 4231l8-14-5-10-9 10z"/><path class="v2" d="M1518 4274l9-17 8-2 9-6 8 0 9-7-6-11-8 13-9 5-8 5-9 8-8 4z"/><path class="v0" d="M1868 4161l8 0 7-3 8-3 8-4 8 0-6-4-8-1-8 5-7 3-8 2-8-2zM1844 4169l8 1 8-8-6-3-8 5-8 3zM1498 4291l9-2-6-3-8 2z"/><path class="v1" d="M1860 4162l8-1-6-7-8 5zM1837 4163l7 6-6-2-7-2zM1507 4289l9-7 8-2 9-6-6-17-9 17-8-2-9 14z"/><path class="v2" d="M1829 4145l8 18-6 2-8-27zM1533 4274l8-8 9-1 8-5 8-10-5-8-9 7-8 0-9 6-8 2z"/><path class="v7" d="M1822 4096l7 49-6-7-7-64zM1724 4154l9-10 8 2 8-10 8 0-6-16-8-3-8 0-8 1-8 11zM1675 4153l8 6 9-3 8-9-6-8-8-11-8 8-9-2zM1608 4192l9-7 8-11-6-24-8 11-9 5z"/><path class="v12" d="M1814 4052l8 44-6-22-7-60z"/><path class="v15" d="M1799 4043l8-14 7 23-5-38-8-34-8 25z"/><path class="v13" d="M1790 4092l9-49-6-38-9 58z"/><path class="v9" d="M1781 4126l9-34-6-29-8 51zM1633 4165l9-11 8-2 8 2-5-32-9 4-8 0-9 11z"/><path class="v6" d="M1773 4137l8-11-5-12-9 15zM1757 4136l8 11-6-15-8-12zM1700 4147l8 7 8-1 8 1-5-25-8 2-9 6-8 2zM1600 4196l8-4-6-26-8 23z"/><path class="v5" d="M1765 4147l8-10-6-8-8 3zM1583 4224l9-13 8-15-6-7-8 7-9 21z"/><path class="v8" d="M1658 4154l9-5 8 4-6-19-8-5-8-7zM1625 4174l8-9-6-28-8 13z"/><path class="v3" d="M1566 4250l9-11 8-15-6-7-8 14-8 11z"/><path class="v0" d="M1850 4176l8-4 8-1 8-6 8 1 7-5 8-6 8 1 8-2-6-3-8 0-8 4-8 3-7 3-8 0-8 1-8 8-8-1z"/><path class="v1" d="M1842 4178l8-2-6-7-7-6zM1504 4294l9 1 8-5 9-9 8-2 9-5 8-6 9-3-6-5-8 5-9 1-8 8-9 6-8 2-9 7-9 2z"/><path class="v2" d="M1835 4149l7 29-5-15-8-18zM1564 4265l8-12 9-12-6-2-9 11-8 10z"/><path class="v6" d="M1827 4120l8 29-6-4-7-49zM1747 4155l8-3-6-16-8 10zM1681 4169l8-1 8-5 9-2 8 7-6-14-8-7-8 9-9 3-8-6zM1622 4191l9-15 8 1-6-12-8 9-8 11z"/><path class="v9" d="M1820 4075l7 45-5-24-8-44z"/><path class="v12" d="M1804 4083l8-14 8 6-6-23-7-23-8 14z"/><path class="v10" d="M1795 4118l9-35-5-40-9 49z"/><path class="v7" d="M1787 4145l8-27-5-26-9 34zM1639 4177l9-10 8 1 8-2 9 3 8 0-6-16-8-4-9 5-8-2-8 2-9 11z"/><path class="v5" d="M1755 4152l8 5 8 0 8-4 8-8-6-19-8 11-8 10-8-11-8 0zM1714 4168l8-1 8 2 8-11 9-3-6-9-8-2-9 10-8-1-8 1zM1597 4222l9-3 8-17 8-11-5-6-9 7-8 4-8 15z"/><path class="v4" d="M1589 4232l8-10-5-11-9 13z"/><path class="v3" d="M1581 4241l8-9-6-8-8 15z"/><path class="v0" d="M1848 4183l8-7 8-2 8 1 8-6 8-4 7-2 8-2 8-4 8-4-6 1-8 2-8-1-8 6-7 5-8-1-8 6-8 1-8 4-8 2zM1518 4296l9 2-6-8-8 5z"/><path class="v2" d="M1841 4166l7 17-6-5-7-29zM1570 4272l8-4 8-18-5-9-9 12-8 12z"/><path class="v4" d="M1833 4140l8 26-6-17-8-29zM1769 4164l8 5 8-1 8-1-6-22-8 8-8 4-8 0zM1728 4171l8 3-6-5-8-2zM1603 4231l9-2 8-12-6-15-8 17-9 3z"/><path class="v8" d="M1826 4116l7 24-6-20-7-45zM1801 4151l8-28-5-40-9 35z"/><path class="v9" d="M1809 4123l9-12 8 5-6-41-8-6-8 14z"/><path class="v5" d="M1793 4167l8-16-6-33-8 27zM1736 4174l8-1 9-12 8-2 8 5-6-7-8-5-8 3-9 3-8 11zM1712 4172l8 1 8-2-6-4-8 1-8-7zM1687 4178l8-3-6-7-8 1zM1620 4217l8-11-6-15-8 11z"/><path class="v6" d="M1695 4175l8-11 9 8-6-11-9 2-8 5zM1628 4206l9-16 8-7 8 2 9 1 8-3 8 3 9-8-6-9-8 0-9-3-8 2-8-1-9 10-8-1-9 15z"/><path class="v3" d="M1586 4250l9-12 8-7-6-9-8 10-8 9z"/><path class="v1" d="M1527 4298l9-5 8-5 8-12 9 0 9-4-6-7-9 3-8 6-9 5-8 2-9 9zM1510 4298l8-2-5-1-9-1z"/><path class="v1" d="M1917 4162l8-5-6-4-8 4zM1878 4177l8-8 7 5-5-9-8 4-8 6zM1846 4176l8 5 8 2-6-7-8 7-7-17zM1550 4292l8-4 9-4 8-4 9-14-6 2-8 4-9 4-9 0-8 12zM1515 4300l9-3 9 0-6 1-9-2-8 2z"/><path class="v0" d="M1893 4174l8-5 8-5 8-2-6-5-8 4-8 2-7 2zM1862 4183l8-2 8-4-6-2-8-1-8 2zM1533 4297l8-1 9-4-6-4-8 5-9 5z"/><path class="v3" d="M1839 4163l7 13-5-10-8-26zM1783 4177l8-5 8 3-6-8-8 1-8 1zM1592 4254l9-1 8-7 8-17-5 0-9 2-8 7-9 12z"/><path class="v5" d="M1831 4151l8 12-6-23-7-24zM1807 4169l8-17-6-29-8 28zM1709 4177l8 1 9 3-6-8-8-1-9-8zM1659 4194l9 9 8-5 8-6 9-9 8 1-6-9-8 3-9 8-8-3-8 3-9-1zM1634 4212l8-6-5-16-9 16z"/><path class="v6" d="M1815 4152l8-3 8 2-5-35-8-5-9 12zM1701 4184l8-7-6-13-8 11zM1642 4206l9-11 8-1-6-9-8-2-8 7z"/><path class="v4" d="M1799 4175l8-6-6-18-8 16zM1726 4181l8 10 8-6 8-2 8-5 8-1 8 3 9-3-6-8-8-5-8-5-8 2-9 12-8 1-8-3-8 2zM1617 4229l9-7 8-10-6-6-8 11-8 12z"/><path class="v2" d="M1584 4266l8-12-6-4-8 18z"/><path class="v0" d="M1915 4169l8-4 8 1-6-9-8 5-8 2zM1868 4186l8 0 8-8-6-1-8 4-8 2zM1547 4302l8-5-5-5-9 4z"/><path class="v1" d="M1884 4178l8-4 8-4 7-5 8 4-6-5-8 5-8 5-7-5-8 8zM1852 4186l8 1 8-1-6-3-8-2-8-5zM1555 4297l9-5 9 1 8-7 8-18-5-2-9 14-8 4-9 4-8 4zM1521 4305l9-7 8 0 9 4-6-6-8 1-9 0-9 3z"/><path class="v2" d="M1844 4182l8 4-6-10-7-13zM1589 4268l9-1 8-4 9-14-6-3-8 7-9 1-8 12z"/><path class="v3" d="M1837 4167l7 15-5-19-8-12zM1772 4184l8 2 8 4 9-10 8-1 8-1-6-9-8 6-8-3-8 5-9 3-8-3zM1748 4193l8 4 8-9-6-10-8 5-8 2zM1615 4249l8-12-6-8-8 17z"/><path class="v4" d="M1813 4178l8-20 8 12 8-3-6-16-8-2-8 3-8 17zM1764 4188l8-4-6-7-8 1zM1731 4186l9 3 8 4-6-8-8 6-8-10zM1673 4216l9-7 8-2-6-15-8 6-8 5zM1623 4237l9-7 8-3 8-9-6-12-8 6-8 10-9 7z"/><path class="v5" d="M1690 4207l8-6 9-6 8 10 8-15 8-4-5-5-9-3-8-1-8 7-8-1-9 9zM1648 4218l9-8 8 3 8 3-5-13-9-9-8 1-9 11z"/><path class="v1" d="M1890 4187l8-11 8-13 8 3 7 5 8-8 8 2-6 1-8-1-8 4-8-4-7 5-8 4-8 4zM1858 4183l8 5 8-2-6 0-8 1-8-1zM1561 4302l9-10 8 0 9-3 8-4-6-17-8 18-8 7-9-1-9 5zM1527 4309l8-10 9 5 9 2-6-4-9-4-8 0-9 7z"/><path class="v0" d="M1874 4186l8 3 8-2-6-9-8 8-8 0zM1553 4306l8-4-6-5-8 5z"/><path class="v2" d="M1834 4188l8-3 8-5 8 3-6 3-8-4-7-15-8 3zM1595 4285l9-11 8-6 9-14-6-5-9 14-8 4-9 1z"/><path class="v3" d="M1745 4213l9-6 8-5 8 1 8-9 8-8 8 6 8-3 8 1 8-4 9-6 7 8-5-18-8-12-8 20-8 1-8 1-9 10-8-4-8-2-8 4-8 9-8-4-8-4zM1621 4254l8-2 8-8 9-3-6-14-8 3-9 7-8 12z"/><path class="v4" d="M1646 4241l8-10 9-1 8-7 8-1 9-2 8-7 8-4 9-1 8-2 8-7 8 6 8 8-5-24-9-3-8 4-8 15-8-10-9 6-8 6-8 2-9 7-8-3-8-3-9 8-8 9z"/><path class="v1" d="M1920 4170l7-1 8-4 8 8-6-8-8-2-8 8-7-5zM1896 4187l8-13 8-6-6-5-8 13-8 11zM1864 4197l8-7 8 1 8-1-6-1-8-3-8 2-8-5zM1533 4322l8-12 9 1 8 0 9-9 8-11 9 1 8-5 9-2 8-4 9-6-6-7-8 6-9 11-8 4-9 3-8 0-9 10-8 4-9-2-9-5-8 10z"/><path class="v2" d="M1912 4168l8 2-6-4-8-3zM1800 4198l8 0 8 0 8-4 8-5 8 6 8-8 8-4 8 14-6-14-8-3-8 5-8 3-7-8-9 6-8 4-8-1-8 3zM1751 4220l8-5 9 0 8-8-6-4-8-1-8 5-9 6zM1618 4275l8-6 9-16-6-1-8 2-9 14z"/><path class="v0" d="M1888 4190l8-3-6 0-8 2z"/><path class="v3" d="M1776 4207l8-10 8-5 8 6-6-6-8-6-8 8-8 9zM1735 4210l8 4 8 6-6-7-8-8-8-6zM1718 4225l9-8-6-11-8 2zM1635 4253l8 3 9-4 8-7 8-2 9-4 8-8 8-4 9-2-6-12-8 7-9 2-8 1-8 7-9 1-8 10-9 3-8 8z"/><path class="v4" d="M1727 4217l8-7-6-11-8 7zM1702 4225l8-8 8 8-5-17-9 1-8 4z"/><path class="v1" d="M1870 4193l8-1 8-5 8 6 8-3 8-9 8-9 7 4 8-2 8 2 8 3-6-6-8-8-8 4-7 1-8-2-8 6-8 13-8 3-8 1-8-1-8 7zM1564 4317l9-8 8-7 9 0 8-15 9 6 8-9 9-4-6-5-9 6-8 4-9 2-8 5-9-1-8 11-9 9zM1538 4325l9-1 9-4-6-9-9-1-8 12z"/><path class="v2" d="M1806 4198l8 7 8-1 8 5 8-10 8-8 8 11 8-12 8 3-6 4-8-14-8 4-8 8-8-6-8 5-8 4-8 0-8 0zM1749 4228l8-4 8-1 9-4 8-2-6-10-8 8-9 0-8 5-8-6zM1674 4248l9-1-6-8-9 4zM1624 4280l8-3 9-6 8-1 8-6 9-11-6-8-8 7-9 4-8-3-9 16-8 6z"/><path class="v3" d="M1782 4217l8-10 8-1 8-8-6 0-8-6-8 5-8 10zM1683 4247l8-15 8 5 9-5 8-3 8-1 9 4 8-4 8 0-6-14-8-4-8 7-9 8-8-8-8 8-9 2-8 4-8 8zM1666 4253l8-5-6-5-8 2z"/><path class="v0" d="M1556 4320l8-3-6-6-8 0z"/><path class="v1" d="M1860 4209l8-4 8 0 8-10 8-2 8-1 8-1 8-4 8-3 8-12 7 2 8 3 8-2-6 4-8-3-8-2-8 2-7-4-8 9-8 9-8 3-8-6-8 5-8 1-8-3-8 12zM1828 4214l8 0 8-7-6-8-8 10-8-5zM1578 4317l9-6 9-8 8-9 9 1 8-6 9-5 8-4-6-3-8 3-9 4-8 9-9-6-8 15-9 0-8 7zM1544 4319l9 7-6-2-9 1z"/><path class="v2" d="M1844 4207l8 1 8 1-6-7-8-11-8 8zM1738 4231l9-1 8-2 8 5 8 2 8 1 9-12 8-12 8 0 8 0 8 0 8 2-6-10-8 1-8-7-8 8-8 1-8 10-8 2-9 4-8 1-8 4-8 0-8 4zM1638 4280l8-10 9 0 8 6 9-15 8-2 9-7-6-5-9 1-8 5-9 11-8 6-8 1-9 6z"/><path class="v3" d="M1689 4252l8 0 8-3 9-7 8 0 8-6 8-5-5 1-9-4-8 1-8 3-9 5-8-5-8 15z"/><path class="v0" d="M1553 4326l8-5 9-2 8-2-5-8-9 8-8 3-9 4z"/><path class="v1" d="M1826 4231l8 0 8-1 8-10 8-9 8 4 8-1 8-7 8-7 8 7 8-8 8-9 8-1 8-6 8-1 7 6 8-8 8 3-6-8-8 2-8-3-7-2-8 12-8 3-8 4-8 1-8 1-8 2-8 10-8 0-8 4-8-1-8-1-8 7-8 0-8-2zM1769 4242l8-4 8 3 9-8-6-9-9 12-8-1-8-2zM1593 4317l8-1 9-13 8-7 9-5 8-4 9-3-6-4-8 4-9 5-8 6-9-1-8 9-9 8zM1550 4329l8-3 9-2-6-3-8 5-9-7z"/><path class="v2" d="M1794 4233l8-1 8 1 8-6 8 4-6-19-8 0-8 0-8 0-8 12zM1644 4284l8-4 9-4 8-9 9-3 8 2 8-3 9-2 8-4 8-10 9-1 8-7 8 3 9-1 8-3 8 4-6-9-8-5-8 2-9 1-8 5-8 6-8 0-9 7-8 3-8 0-9 7-8 2-9 15-8-6-9 0-8 10z"/><path class="v0" d="M1567 4324l9 2 8-5 9-4-6-6-9 6-8 2-9 2z"/><path class="v1" d="M1848 4231l8-13 8-8 8 3 8 3 8-2 8 0 8-15 8 8 8-4 8-7 8-3 8-3 7 6 8-4 8-4-6-5-8-3-8 8-7-6-8 1-8 6-8 1-8 9-8 8-8-7-8 7-8 7-8 1-8-4-8 9-8 10zM1775 4242l8 7 8-4 8-2 9-8 8-1 8-10 8 8 8 3-6-4-8 0-8-4-8 6-8-1-8 1-9 8-8-3-8 4zM1607 4317l9 0 8-3 9-13 8-9 9-4-6-4-9 3-8 4-9 5-8 7-9 13zM1582 4329l8-10 9 3-6-5-9 4-8 5zM1556 4336l8-3 9 0-6-9-9 2-8 3z"/><path class="v0" d="M1840 4235l8-4-6-1-8 1zM1599 4322l8-5-6-1-8 1zM1573 4333l9-4-6-3-9-2z"/><path class="v2" d="M1650 4288l8-3 9-3 8-1 9-8 8-4 8 0 9 1 8-14 8 0 9 1 8-12 8 0 9 1 8-2 8-2-6 0-8-4-8 3-9 1-8-3-8 7-9 1-8 10-8 4-9 2-8 3-8-2-9 3-8 9-9 4-8 4z"/><path class="v0" d="M1957 4195l8-1 8-2-6-4-8 4-8 4zM1918 4212l8 0-6-9-8 4zM1613 4321l9 2 8-5-6-4-8 3-9 0zM1561 4344l9-6 9 0 8-7-5-2-9 4-9 0-8 3z"/><path class="v1" d="M1926 4212l8-5 8-2 7-3 8-7-6 1-7-6-8 3-8 3-8 7zM1781 4254l8-3 8 1 8 3 9-8 8-12 8 3 8-6 8 7 8-9 8 1 8-7 8-6 8 5 8-3 8-7 8-2 8 1-6-5-8-8-8 15-8 0-8 2-8-3-8-3-8 8-8 13-8 4-8-3-8-8-8 10-8 1-9 8-8 2-8 4-8-7zM1630 4318l9-8 8-10 9-4 8 2 9-4 8-7-6-6-8 1-9 3-8 3-9 4-8 9-9 13zM1587 4331l9-3 8-7 9 0-6-4-8 5-9-3-8 10z"/><path class="v2" d="M1681 4287l8-2 9-5 8-10 9-1 8 7 8-7 9-5 8-11 8 10 8-10 9-2 8 3-6-12-8 2-8 2-9-1-8 0-8 12-9-1-8 0-8 14-9-1-8 0-8 4-9 8z"/><path class="v0" d="M1924 4214l8 0 8-6 8 1 8-3 7-3 8-5 8-4-6-2-8 2-8 1-8 7-7 3-8 2-8 5-8 0zM1619 4330l9-5 8-2 9-3-6-10-9 8-8 5-9-2zM1567 4344l9-2 9-2 8-2-6-7-8 7-9 0-9 6z"/><path class="v1" d="M1762 4264l8-4 9-3 8 6 8 1 8-7 8 1 9-13 8 2 8-4 8-11 8 5 8 3 8-3 8-6 8 0 8-7 8-1 8-8 8 1 8-2-6-2-8-1-8 2-8 7-8 3-8-5-8 6-8 7-8-1-8 9-8-7-8 6-8-3-8 12-9 8-8-3-8-1-8 3-8-3-9 2-8 10zM1729 4278l8-5 9 0-6-9-9 5-8 7zM1645 4320l8-16 9 3 8-4 8 0 9-8 8-2 9-8-6-5-9 5-8 2-8 7-9 4-8-2-9 4-8 10zM1593 4338l9-11 8 2 9 1-6-9-9 0-8 7-9 3z"/><path class="v2" d="M1746 4273l8-7 8-2-6-1-8-10-8 11zM1704 4285l8 2 9-14 8 5-6-2-8-7-9 1-8 10z"/><path class="v1" d="M1970 4206l8-9 7-2-6-1-8 4-8 5zM1890 4236l8-6 8-1 8-3 8 0-6-10-8-1-8 8-8 1-8 7zM1809 4264l8-5 9-9 8 0 8-3 8-2 8 3 8-5-6-3-8-3-8-5-8 11-8 4-8-2-9 13-8-1zM1727 4277l8 12 8-9 9-6 8-5 8-1 8-4 9 2 8-7 8 10-6-5-8-1-8-6-9 3-8 4-8 2-8 7-9 0-8 5-8-5zM1650 4324l9-19 8 8 9 3 8-9 9-12 8-1 9 3 8-10-6 0-8-2-9 8-8 2-9 8-8 0-8 4-9-3-8 16zM1599 4340l9-13 8 3 9 0-6 0-9-1-8-2-9 11z"/><path class="v0" d="M1922 4226l8-5 8-2 8-5 8-1 8-4 8-3-7-3-7 3-8 3-8-1-8 6-8 0-8 2zM1866 4243l8-1 8-7 8 1-6-5-8 0-8 6-8 3zM1801 4269l8-5-6-7-8 7zM1625 4330l8 1 9-4 8-3-5-4-9 3-8 2-9 5zM1573 4353l9-5 8-1 9-7-6-2-8 2-9 2-9 2z"/><path class="v2" d="M1718 4287l9-10-6-4-9 14z"/><path class="v1" d="M1968 4209l8-1 8-11 8-1-7-1-7 2-8 9-8 3zM1952 4214l8 4-6-5-8 1zM1888 4239l9-12 7 3 8 6-6-7-8 1-8 6-8-1zM1823 4267l9-9 8-6 8-2 8 4 8-11 8 7-6-7-8 5-8-3-8 2-8 3-8 0-9 9zM1596 4347l9-6 8-14 9 8 9-5 8 5 9-14 8 2 9-9 8-2 9-5 8-1 9-3 8-6 9 7 8-7 8-7 9-1 8-10 9 3 8-2 8-4 8 2 9-11 8 3 8-1-6 0-8-10-8 7-9-2-8 4-8 1-8 5-9 6-8 9-8-12-9 10-8 10-9-3-8 1-9 12-8 9-9-3-8-8-9 19-8 3-9 4-8-1-9 0-8-3-9 13-9 7z"/><path class="v0" d="M1960 4218l8-9-6 0-8 4zM1912 4236l8-3 8-7 8-5 8 3 8-10-6 0-8 5-8 2-8 5-8 0-8 3zM1872 4250l8-4 8-7-6-4-8 7-8 1zM1807 4269l8 0 8-2-6-8-8 5-8 5zM1579 4352l9 3 8-8-6 0-8 1-9 5z"/><path class="v1" d="M1974 4216l8 1 8-10 8-8-6-3-8 1-8 11-8 1zM1886 4247l9-6 8-15 8 6 8-1 8-3 7 4 8-7 8-1 8-2 8 0-6-4-8-4-8 10-8-3-8 5-8 7-8 3-8-6-7-3-9 12-8 7zM1829 4270l9-3 8-14 8 8 8-6 8 3 8-5-6-3-8-7-8 11-8-4-8 2-8 6-9 9zM1602 4353l9-5 8-4 9 1 9-6 8 1 9-7 8-1 9-8 8-7 9-11 8 9 9-6 8-4 9 0 8-8 8 2 9 0 8-8 9-5 8 3 8-9 8-1 9-1 8 3 8-6-6-6-8 1-8-3-9 11-8-2-8 4-8 2-9-3-8 10-9 1-8 7-8 7-9-7-8 6-9 3-8 1-9 5-8 2-9 9-8-2-9 14-8-5-9 5-9-8-8 14-9 6z"/><path class="v0" d="M1966 4222l8-6-6-7-8 9zM1878 4253l8-6-6-1-8 4zM1813 4275l8 1 8-6-6-3-8 2-8 0zM1585 4358l8 1 9-6-6-6-8 8-9-3z"/><path class="v1" d="M1980 4223l8-11 8 5 8-4-6-14-8 8-8 10-8-1zM1917 4235l8-1 8-4 8 8-7-6-7-4-8 3-8 1zM1892 4256l9-16 8-8-6-6-8 15-9 6zM1844 4273l8-4 8-1-6-7-8-8-8 14zM1668 4334l9-4 8-6 9-9 8 0 9-2 8 0 9-1 8 1 8-4 9-5 8-1 8-4 9-9 8-2 8-1 9-6 8-2 8 0 8-7 9 4-7-6-8 6-8-1-8 6-8-3-9 1-8 1-8 9-8-3-9 5-8 8-9 0-8-2-8 8-9 0-8 4-9 6-8-9-9 11-8 7-9 8zM1608 4361l9-11 8 3-6-9-8 4-9 5z"/><path class="v0" d="M1941 4238l8-7 7 1 8-2 8-3 8-4-6-7-8 6-8 0-8 2-8 1-8 7zM1860 4268l8-6 8-1 8-3 8-2-6-9-8 6-8 5-8-3-8 6zM1836 4276l8-3-6-6-9 3zM1625 4353l9-4 9-6 8-2 9-4 8-3-6-2-8 1-9 7-8-1-9 6-9-1zM1591 4363l8-3 9 1-6-8-9 6-8-1z"/><path class="v2" d="M1909 4232l8 3-6-3-8-6z"/><path class="v0" d="M2002 4221l8-2-6-6-8 4zM1955 4234l8 2 8-10-7 4-8 2-7-1zM1842 4281l8-4 8-3 8-7 8-2 8-5 9 1 8-4-7-1-8 2-8 3-8 1-8 6-8 1-8 4-8 3zM1734 4321l8-6 8-5 9 1 8-7-6-1-8 1-9 5-8 4-8-1zM1631 4352l9 3 9-4 8-5-6-5-8 2-9 6-9 4zM1605 4363l9 1 9-3-6-11-9 11-9-1z"/><path class="v1" d="M1971 4226l8-4 8 0 7 0 8-1-6-4-8-5-8 11-8 4-8 3zM1899 4257l8-13 8 1 8-11 8 9 8-2 8-6 8-1-6-3-8 7-8-8-8 4-8 1-8-3-8 8-9 16zM1767 4304l9-8 8-5 8-3 9-10 8 3 8 6 8-6 8 0 9 0-6-5-9-4-8 7-8 0-8 2-9 6-8 1-8 2-9 9-8 4zM1657 4346l9-6 8-3 9-15 8 3 9-2 8 0 9-3 8-1 9 2-6-9-9 1-8 0-9 2-8 0-9 9-8 6-9 4-8 3-9 4zM1623 4361l8-9-6 1-8-3zM1596 4361l9 2-6-3-8 3z"/><path class="v0" d="M2001 4223l7 2 8-2-6-4-8 2-8 1zM1961 4242l8-4-6-2-8-2zM1880 4271l9-4 8 0 8-5-6-5-8 4-9-1-8 5zM1823 4294l8-5 9 0 8-8 8-4 8 2 8-9-6-3-8 7-8 3-8 4-9 0-8 0-8 6zM1731 4326l9-4 8-3 9-4-7-5-8 5-8 6-9-2zM1637 4360l9-1 8-8-5 0-9 4-9-3zM1611 4368l9 2 9-10-6 1-9 3-9-1z"/><path class="v1" d="M1969 4238l8-8 8-3 8-12 8 8-7-1-7 0-8 0-8 4-8 10zM1905 4262l8-8 8-4 8-6 8-4 8 1 8 3 8-2-6-8-8 1-8 6-8 2-8-9-8 11-8-1-8 13zM1872 4270l8 1-6-6-8 2zM1757 4315l8-8 8-8 9 1 8-4 8-7 9 0 8 5 8 0-6-7-8-6-8-3-9 10-8 3-8 5-9 8-8 7-9-1zM1654 4351l9-6 9-1 8 1 9-14 8 3 9-1 8-6 9 5 8-6-6-7-8 1-9 3-8 0-9 2-8-3-9 15-8 3-9 6-8 5zM1629 4360l8 0-6-8-8 9zM1602 4369l9-1-6-5-9-2z"/><path class="v0" d="M2015 4229l7-4-6-2-8 2zM1829 4293l8 1 9-7 8-1 8 0 8-2 8-6 9-1 8-6 8-5 8 2-6-6-8 5-8 0-9 4-8-1-8 9-8-2-8 4-8 8-9 0-8 5zM1720 4339l9-2 8-8-6-3-8 6-9-5zM1643 4366l9-2 8-4-6-9-8 8-9 1zM1617 4374l9-6-6 2-9-2z"/><path class="v1" d="M1911 4268l8-6 8-2 8-9 8 5 8-5 8-3 8-13 8 6 8-4 8 2 8-15 8-1 8 6-7-4-7-2-8-8-8 12-8 3-8 8-8 4-8 2-8-3-8-1-8 4-8 6-8 4-8 8zM1737 4329l9-6 8-6 9 3 8-8 8-11 9 1 8-6 9-4 8 5 8-8 8 4-6 1-8 0-8-5-9 0-8 7-8 4-9-1-8 8-8 8-9 4-8 3-9 4zM1660 4360l9-7 9-2 8-1 9-12 8-2 9 0 8 3-6-12-8 6-9 1-8-3-9 14-8-1-9 1-9 6zM1626 4368l9-2 8 0-6-6-8 0-9 10zM1608 4369l9 5-6-6-9 1z"/><path class="v1" d="M2014 4213l7 16 8-12-7 8-7 4-8-6zM1997 4240l8-10-6-6-8 15zM1965 4250l8-2 8 0-6-7-8-6-8 13zM1933 4265l8-5 8-1-6-3-8-5-8 9zM1743 4331l9 3 8-4 9-5 8-7 9-13 8 3 8-7 9-5 8 10 8-3 8-5 9-5 8 0 8-1 8-10 8 6-6-4-8 2-8 0-8 1-9 7-8-1-8-4-8 8-8-5-9 4-8 6-9-1-8 11-8 8-9-3-8 6-9 6zM1614 4384l9-4 9-12 9-1 8-3 9-8 8-4 9-4 9 5 8 0 9 0 8-15 9 9-6-11-9 0-8 2-9 12-8 1-9 2-9 7-8 4-9 2-8 0-9 2-9 6-9-5z"/><path class="v2" d="M2005 4230l9-17-7 10-8 1z"/><path class="v0" d="M1981 4248l8-6 8-2-6-1-8-2-8 4zM1949 4259l8-5 8-4-6-2-8 3-8 5zM1876 4288l9-3 8-3 8-5 8-4 8-6 8 4 8-6-6-5-8 2-8 6-8-2-8 5-8 6-9 1-8 6zM1718 4347l8-6 9-5 8-5-6-2-8 8-9 2-8-3z"/></g>
<path d="M801.6 2209.4L1042.6 2118.9M641.6 2083.6L801.6 2209.4M641.6 2083.6L633.3 1890.5M822.7 2205.4L817.3 2201.3M785.5 2201.5L791.9 2199.1M876.8 2185.1L871.3 2181M749.1 2172.8L755.5 2170.5M929.4 2165.3L923.9 2161.3M714 2145.2L720.4 2142.9M980.7 2146L975.1 2142.2M680.2 2118.6L686.6 2116.4M1030.6 2127.2L1024.9 2123.5M647.6 2093L654.1 2090.8M635.9 2048.5L642.4 2046.4M634.3 2011.3L640.8 2009.2M632.6 1972.6L639.1 1970.7M630.8 1932.4L637.4 1930.5M629.1 1891.7L635.6 1889.8" stroke="#111" stroke-width="0.85" fill="none"/>
<g class="tk" font-size="14"><text x="828.1" y="2229.8">−10</text><text x="777.9" y="2224.9">−10</text><text x="881.9" y="2209.1">−5</text><text x="741.5" y="2195.7">−5</text><text x="934.2" y="2189">0</text><text x="706.4" y="2167.7">0</text><text x="985.2" y="2169.3">5</text><text x="672.6" y="2140.6">5</text><text x="1034.8" y="2150.2">10</text><text x="640.1" y="2114.5">10</text></g>
<text class="al" x="948.5" y="2208.9" font-size="16.4">x</text>
<text class="al" x="686.2" y="2182.2" font-size="16.4">y</text>
<text class="zl" transform="translate(615.5 1989) rotate(87.5)" font-size="16.4">|<tspan class="i">u</tspan>(<tspan class="i">x</tspan>,<tspan class="i" dx="3.2">y</tspan>)|</text>
<linearGradient id="g7" x1="0" y1="0" x2="0" y2="1"><stop offset="0%" stop-color="#fde725"/><stop offset="6.2%" stop-color="#d8e219"/><stop offset="12.5%" stop-color="#addc30"/><stop offset="18.8%" stop-color="#84d44b"/><stop offset="25%" stop-color="#5ec962"/><stop offset="31.2%" stop-color="#3fbc73"/><stop offset="37.5%" stop-color="#28ae80"/><stop offset="43.8%" stop-color="#1fa088"/><stop offset="50%" stop-color="#21918c"/><stop offset="56.2%" stop-color="#26828e"/><stop offset="62.5%" stop-color="#2c728e"/><stop offset="68.8%" stop-color="#33638d"/><stop offset="75%" stop-color="#3b528b"/><stop offset="81.2%" stop-color="#424086"/><stop offset="87.5%" stop-color="#472d7b"/><stop offset="93.8%" stop-color="#48186a"/><stop offset="100%" stop-color="#440154"/></linearGradient>
<rect x="1068.1" y="1869.3" width="19.4" height="284.8" fill="url(#g7)" stroke="#111" stroke-width="0.85"/>
<path d="M1087.5 2100.5h3.3M1087.5 2044.1h3.3M1087.5 1987.7h3.3M1087.5 1931.3h3.3M1087.5 1874.9h3.3" stroke="#111" stroke-width="0.85" fill="none"/>
<g class="cb" font-size="12.0"><text x="1094.4" y="2104.1">0.02</text><text x="1094.4" y="2047.7">0.04</text><text x="1094.4" y="1991.3">0.06</text><text x="1094.4" y="1934.9">0.08</text><text x="1094.4" y="1878.5">0.10</text></g>
<text class="cap" transform="translate(863.1 2300.3) scale(1.06 1)" font-size="42" textLength="340.6" lengthAdjust="spacing">(h) LSM Prediction</text>
</g>
<g id="pi">
<path d="M1237.3 2084.4L1468.3 2008M1468.3 2008L1638.5 2119.8M1229 1891.2L1469.6 1822.9M1469.6 1822.9L1647.3 1922.9M1468.3 2008L1469.6 1822.9M1638.5 2119.8L1647.3 1922.9M1397.4 2210.3L1237.3 2084.4M1397.4 2210.3L1638.5 2119.8M1237.3 2084.4L1229 1891.2" stroke="#f0f0f0" stroke-width="0.9" fill="none"/>
<path d="M1415 2203.6L1254.1 2078.8M1254.1 2078.8L1246.5 1886.2M1385.4 2200.8L1625.9 2111.5M1625.9 2111.5L1634 1915.5M1469.1 2183.4L1305.7 2061.8M1305.7 2061.8L1300.4 1870.9M1349 2172.2L1587.2 2086.1M1587.2 2086.1L1593.6 1892.7M1521.7 2163.6L1356.1 2045.1M1356.1 2045.1L1352.9 1856M1313.9 2144.6L1549.9 2061.6M1549.9 2061.6L1554.7 1870.8M1572.9 2144.4L1405.2 2028.9M1405.2 2028.9L1404 1841.5M1280.1 2118L1513.9 2038M1513.9 2038L1517.1 1849.6M1622.8 2125.7L1453.2 2013M1453.2 2013L1453.9 1827.3M1247.5 2092.4L1479.2 2015.1M1479.2 2015.1L1480.9 1829.2M1236.2 2057.2L1468.5 1981.9M1468.5 1981.9L1639.8 2092.1M1234.8 2026.2L1468.7 1952.1M1468.7 1952.1L1641.2 2060.5M1233.6 1996.7L1468.9 1923.9M1468.9 1923.9L1642.5 2030.5M1232.2 1964.9L1469.1 1893.4M1469.1 1893.4L1643.9 1998.1M1230.8 1932.9L1469.3 1862.8M1469.3 1862.8L1645.4 1965.5M1229.4 1899.6L1469.5 1830.9M1469.5 1830.9L1646.9 1931.6" stroke="#b6b6b6" stroke-width="0.85" fill="none"/>
<g transform="scale(0.5)" stroke-width="1.3" stroke-linejoin="round"><path class="w12" d="M2927 3814l9 1-6-22-9 29zM2893 3806l8 22-5-38-9 42zM2867 3801l9 35-6-21-9 17zM2841 3812l9 26-6-12-9-22zM2780 3834l9 21 8-35 9 18-5 34-10-56-8 48-9-48zM2663 3871l10 16 8-37 10 31 9 24 9-33-6-1-9 2-9 2-9-14-9 34-10-39zM2609 3915l9-13 9 0 9-11 9-8 9-27-5 45-9 14-10-56-9 31-8 28-10-19zM2526 3937l8-25-4 37-11-27z"/><path class="w11" d="M2901 3828l9 0 9-6 8-8-6 8-9 2-8 19-8-53zM2876 3836l8-2 9-28-6 26-9 8-8-25zM2850 3838l9 39 8-76-6 31-8 11-9-17zM2806 3838l9 14 9-7-6-18-9 37-8 8zM2771 3892l9-58-6-18-8 86zM2727 3873l9 18 9-21 8-1 10 22-7-32-8 44-9-25-9-15-9 24zM2591 3924l9-6 9-3-6-16-8 36-10-29zM2534 3912l11 30 9-6 9-12 10 19-7-43-8 48-10-10-9 3-9 8z"/><path class="w13" d="M2824 3845l8-49 9 16-6-8-9 1-8 22zM2717 3816l10 57-6 14-10-99zM2654 3856l9 15-6-15-8 45zM2573 3943l7-59 11 40-6-18-11-53-8 47z"/><path class="w10" d="M2763 3891l8 1-5 10-10-43z"/><path class="w14" d="M2709 3872l8-56-6-28-8 83z"/><path class="w11" d="M2916 3813l8 35 9-11 9-15-6-7-9-1-8 8-9 6zM2856 3840l9 23 8-23-6-39-8 76-9-39zM2768 3867l9 19-6 6-8-1zM2733 3885l9-7 8-13-5 5-9 21-9-18zM2697 3878l9 24 9 21-6-51-9 33-9-24zM2606 3933l10 34 7-78-5 13-9 13-9 3zM2550 3934l10 8 9-15 9 4-5 12-10-19-9 12-9 6z"/><path class="w12" d="M2873 3840l9-20 9-28 8 29 9-17 8 9-6 15-9 0-8-22-9 28-8 2-9-35zM2847 3821l9 19-6-2-9-26zM2803 3811l9 66 9-61 9 16-6 13-9 7-9-14-9-18zM2777 3886l9-76-6 24-9 58zM2750 3865l9-28 9 30-5 24-10-22-8 1zM2715 3923l8-67-6-40-8 56zM2669 3863l10 34 9 10 9-29-6 3-10-31-8 37-10-16zM2623 3889l9-13 10 35 9-9-6-19-9 8-9 11-9 0zM2578 3931l9-7 9-25 10 34-6-15-9 6-11-40-7 59zM2530 3916l10 5 10 13-5 8-11-30-8 25z"/><path class="w13" d="M2830 3832l8-9 9-2-6-9-9-16-8 49zM2786 3810l9 25 8-24-6 9-8 35-9-21zM2723 3856l10 29-6-12-10-57zM2651 3902l9-23 9-16-6 8-9-15-9 27z"/><path class="w11" d="M2939 3864l9-32-6-10-9 15zM2862 3831l9 18 8-23-6 14-8 23-9-23zM2774 3883l9 6-6-3-9-19zM2685 3904l9-13 9 17 9 8 9-34-6 41-9-21-9-24-9 29-9-10zM2611 3920l9-14-4 61-10-34zM2556 3936l9 4 9-9 11 54 7-78-5 17-9 7-9-4-9 15-10-8z"/><path class="w10" d="M2931 3833l8 31-6-27-9 11z"/><path class="w12" d="M2914 3820l8-19 9 32-7 15-8-35-8-9zM2879 3826l9-11-6 5-9 20zM2853 3817l9 14-6 9-9-19zM2810 3870l8-22 9-9-6-23-9 61-9-66zM2783 3889l9-58-6-21-9 76zM2765 3838l9 45-6-16-9-30zM2738 3829l10 52 8-36-6 20-8 13-9 7zM2721 3882l9-1-7-25-8 67zM2647 3876l10 27 9-43 10 68 9-24-6-7-10-34-9 16-9 23-9 9zM2620 3906l10-5-7-12-7 78zM2592 3907l10 17 9-4-5 13-10-34-9 25zM2536 3929l10 13 10-6-6-2-10-13-10-5z"/><path class="w13" d="M2888 3815l9-30 8 7 9 28-6-16-9 17-8-29-9 28zM2827 3839l9-5 9-4 8-13-6 4-9 2-8 9-9-16zM2800 3789l10 81-7-59-8 24zM2756 3845l9-7-6-1-9 28zM2730 3881l8-52-5 56-10-29zM2630 3901l8-30 9 5-5 35-10-35-9 13z"/><path class="w14" d="M2792 3831l8-42-5 46-9-25z"/><path class="w11" d="M2937 3838l8-5 9 10-6-11-9 32-8-31zM2780 3886l9-18-6 21-9-6zM2708 3875l10 25-6 16-9-8zM2682 3927l8-36-5 13-9 24zM2609 3948l8-24 11 47 8-56-6-14-10 5-9 14-9 4zM2591 3982l8-50-7-25-7 78zM2552 3928l11 57 9-22 9 6-7-38-9 9-9-4-10 6z"/><path class="w12" d="M2911 3806l9 41 8-32 9 23-6-5-9-32-8 19-9-28zM2868 3832l9-3 8 0-6-3-8 23-9-18zM2816 3867l8-57-6 38-8 22zM2789 3868l9-20-6-17-9 58zM2771 3858l9 28-6-3-9-45zM2754 3894l8-53-6 4-8 36zM2718 3900l8-50 10 29-6 2-9 1-9 34zM2690 3891l10 12 8-28-5 33-9-17-9 13zM2636 3915l9-8 10 40 8-25 9-16 10 21-6 1-10-68-9 43-10-27-9-5-8 30zM2599 3932l10 16-7-24-10-17z"/><path class="w13" d="M2885 3829l9-25 9 33 8-31-6-14-8-7-9 30-9 11zM2824 3810l9 34 9-34 9 20 8 6 9-4-6-1-9-14-8 13-9 4-9 5-9 9zM2807 3826l9 41-6 3-10-81zM2762 3841l9 17-6-20-9 7zM2736 3879l8-30 10 45-6-13-10-52-8 52zM2541 3895l11 33-6 14-10-13z"/><path class="w14" d="M2798 3848l9-22-7-37-8 42z"/><path class="w10" d="M2581 3969l10 13-6 3-11-54z"/><path class="w11" d="M2935 3824l8 39 8-27 9-21-6 28-9-10-8 5-9-23zM2900 3863l9 9-6-35-9-33zM2777 3884l10 29 8-45-6 0-9 18-9-28zM2651 3921l10 19 8-40-6 22-8 25-10-40zM2597 3976l8-42 10 42 8-50 9-27 10 29-6-13-8 56-11-47-8 24-10-16-8 50zM2558 3937l10 29-5 19-11-57z"/><path class="w12" d="M2909 3872l8-63 9 43 9-28-7-9-8 32-9-41-8 31zM2865 3813l9 55 9-52-6 13-9 3-9 4zM2839 3871l9-20-6-41-9 34zM2813 3885l9-32-6 14-9-41zM2795 3868l9-22-6 2-9 20zM2714 3892l9-30 10 33 9 5 8-42 10 58 8-91-6 16-8 53-10-45-8 30-10-29-8 50-10-25zM2669 3900l9-16 9 9 9 3-6-5-8 36-10-21-9 16zM2642 3928l9-7-6-14-9 8z"/><path class="w13" d="M2883 3816l9-16 8 63-6-59-9 25-8 0zM2848 3851l9-4 8-34-6 23-8-6-9-20zM2822 3853l8-11 9 29-6-27-9-34-8 57zM2804 3846l9 39-6-59-9 22zM2768 3825l9 59-6-26-9-17zM2696 3896l9-49 9 45-6-17-8 28-10-12zM2547 3900l11 37-6-9-11-33z"/><path class="w10" d="M2568 3966l11 42 7-82 11 50-6 6-10-13-9-6-9 22z"/><path class="w12" d="M2958 3822l8 30-6-37-9 21zM2915 3858l9-38 8 43-6-11-9-43-8 63zM2898 3803l8 50-6 10-8-63zM2880 3862l9-44-6-2-9 52zM2819 3873l9-28 8 18 9-30 9 18 9 4-6-8-9 4-9 20-9-29-8 11-9 32zM2783 3866l9-12 9-35-6 49-8 45-10-29zM2757 3885l8-24-5 55-10-58zM2730 3906l8-22 9-31-5 47-9-5-10-33zM2693 3894l10 20-7-18-9-3zM2629 3930l9-6 10 29-6-25-10-29-9 27z"/><path class="w11" d="M2932 3863l9-29 8 23 9-35-7 14-8 27-8-39-9 28zM2906 3853l9 5-6 14-9-9zM2648 3953l9-17 10 26 7-78-5 16-8 40-10-19-9 7zM2621 3988l8-58-6-4-8 50zM2583 3957l10 10-7-41-7 82zM2564 3955l10 20-6-9-10-29z"/><path class="w14" d="M2889 3818l9-15-6-3-9 16zM2801 3819l9-25-6 52-9 22zM2765 3861l8-91 10 96-6 18-9-59-8 91z"/><path class="w13" d="M2863 3855l9-51 8 58-6 6-9-55-8 34zM2810 3794l9 79-6 12-9-39zM2747 3853l10 32-7-27-8 42zM2703 3914l8-38 9-2 10 32-7-44-9 30-9-45-9 49zM2674 3884l10 22 9-12-6-1-9-9-9 16zM2553 3906l11 49-6-18-11-37z"/><path class="w10" d="M2593 3967l10 23 9-8 9 6-6-12-10-42-8 42-11-50zM2574 3975l9-18-4 51-11-42z"/><path class="w12" d="M2955 3842l9-21 9 0-7 31-8-30-9 35zM2912 3832l9-11 9 15-6-16-9 38-9-5zM2886 3841l9 3-6-26-9 44zM2860 3842l9 16-6-3-9-4zM2825 3847l9 37 9-40-7 19-8-18-9 28zM2690 3910l9-13 10 27 9 11 9-30 9 1 8-37-6 15-8 22-10-32-9 2-8 38-10-20-9 12zM2672 3926l8-37-6-5-7 78zM2635 3925l9-7-6 6-9 6zM2560 3941l10 38-6-24-11-49z"/><path class="w11" d="M2930 3836l8 56 9-50 8 0-6 15-8-23-9 29-8-43zM2644 3918l10 54 8-78 10 32-5 36-10-26-9 17-10-29zM2626 3953l9-28-6 5-8 58zM2570 3979l10 3 9-26 10 25-6-14-10-10-9 18-10-20z"/><path class="w13" d="M2895 3844l9-33 8 21-6 21-8-50-9 15zM2869 3858l9-45 8 28-6 21-8-58-9 51zM2843 3844l8 15 9-17-6 9-9-18-9 30zM2816 3846l9 1-6 26-9-79zM2789 3869l9-4-6-11-9 12zM2744 3869l9 13 10 12 8-47-6 14-8 24-10-32-9 31zM2680 3889l10 21-6-4-10-22z"/><path class="w14" d="M2798 3865l9-39 9 20-6-52-9 25-9 35z"/><path class="w15" d="M2771 3847l9-56 9 78-6-3-10-96-8 91z"/><path class="w10" d="M2599 3981l9 4 9-29 9-3-5 35-9-6-9 8-10-23z"/><path class="w12" d="M2953 3824l9 13 8-7 8 21-5-30-9 0-9 21-8 0zM2910 3875l9-15-7-28-8-21zM2849 3839l9 43 8-36-6-4-9 17-8-15zM2724 3936l8-65 10 39 8-33-6-8-8 37-9-1-9 30zM2704 3870l11 83-6-29-10-27zM2669 3961l9-19 9-15 9 0-6-17-10-21-8 37-10-32zM2650 3929l9-17-5 60-10-54zM2632 3968l8-63-5 20-9 28zM2564 3914l12 61-6 4-10-38z"/><path class="w11" d="M2936 3818l8 52 9-46-6 18-9 50-8-56zM2715 3953l9-17-6-1-9-11zM2659 3912l10 49-7-67-8 78zM2576 3975l9-7 10 11 9-13 9-8 9-17 10 27-6-15-9 3-9 29-9-4-10-25-9 26-10-3z"/><path class="w13" d="M2919 3860l8-60 9 18-6 18-9-15-9 11zM2901 3781l9 94-6-64-9 33zM2866 3846l9-1 9-31-6-1-9 45-9-16zM2831 3857l9 0 9-18-6 5-9 40-9-37zM2795 3870l9-3-6-2-9 4zM2750 3877l9-40 9 41 9-46-6 15-8 47-10-12-9-13zM2696 3927l8-57-5 27-9 13zM2640 3905l10 24-6-11-9 7z"/><path class="w14" d="M2884 3814l9-12 8-21-6 63-9-3-8-28zM2804 3867l9-38 9-7 9 35-6-10-9-1-9-20-9 39zM2786 3841l9 29-6-1-9-78z"/><path class="w15" d="M2777 3832l9 9-6-50-9 56z"/><path class="w11" d="M2977 3825l7 67-6-41-8-21zM2916 3864l9 19-6-23-9 15zM2674 3929l10 6-6 7-9 19zM2629 3971l9-7 10 28 9-30-7-33-10-24-8 63-10-27zM2611 3997l8-57-6 18-9 8zM2581 3959l11 26 9 14-6-20-10-11-9 7z"/><path class="w12" d="M2951 3831l8 17 9-35 9 12-7 5-8 7-9-13-9 46zM2925 3883l8-24-6-59-8 60zM2748 3914l8-31-6-6-8 33zM2720 3888l9 2-5 46-9 17zM2684 3935l9-31 9 13-6 10-9 0-9 15zM2657 3962l8-29 9-4-5 32-10-49-9 17zM2619 3940l10 31-7-30-9 17z"/><path class="w13" d="M2933 3859l9-55 9 27-7 39-8-52-9-18zM2908 3790l8 74-6 11-9-94zM2837 3846l9 11 9-17 9 5 8-19 9 17 9 1-6-30-9 31-9 1-8 36-9-43-9 18-9 0zM2801 3851l9 10 9-6-6-26-9 38-9 3zM2729 3890l9-22 10 46-6-4-10-39-8 65zM2702 3917l8-48 10 19-5 65-11-83-8 57zM2571 3925l10 34-5 16-12-61z"/><path class="w15" d="M2899 3768l9 22-7-9-8 21z"/><path class="w14" d="M2890 3844l9-76-6 34-9 12zM2819 3855l9-23 9 14-6 11-9-35-9 7zM2756 3883l9-20 9 15 9-18 9-5 9-4-6 19-9-29-9-9-9 46-9-41-9 40z"/><path class="w10" d="M2601 3999l10-2-7-31-9 13z"/><path class="w11" d="M2982 3874l9-22-7 40-7-67zM2663 3980l9-29-7-18-8 29zM2616 3974l9-22 10 50-6-31-10-31-8 57zM2588 3990l8-43 11 51-6 1-9-14-11-26z"/><path class="w12" d="M2957 3865l9-26 8 20 8 15-5-49-9-12-9 35-8-17zM2922 3827l9-16 9 18-7 30-8 24-9-19zM2753 3897l10-3-7-11-8 31zM2672 3951l8-18 10 14 9-23 9-11-6 4-9-13-9 31-10-6-9 4zM2578 3987l10 3-7-31-10-34z"/><path class="w13" d="M2940 3829l8-3 9 39-6-34-9-27-9 55zM2914 3833l8-6-6 37-8-74zM2870 3852l9 30 8-38 9 19-6-19-9-1-9-17-8 19zM2843 3860l9-19-6 16-9-11zM2816 3866l9 1-6-12-9 6zM2763 3894l9 9 9-8 9 10 9-33-7-17-9 5-9 18-9-15-9 20zM2744 3843l9 54-5 17-10-46zM2726 3920l9-19-6-11-9-2zM2708 3913l8-47-6 3-8 48z"/><path class="w15" d="M2905 3770l9 63-6-43-9-22z"/><path class="w14" d="M2896 3863l9-93-6-2-9 76zM2852 3841l9-12 9 23-6-7-9-5-9 17zM2825 3867l9-19 9 12-6-14-9-14-9 23zM2799 3872l8-21 9 15-6-5-9-10-9 4zM2735 3901l9-58-6 25-9 22zM2716 3866l10 54-6-32-10-19z"/><path class="w10" d="M2635 4002l9-22 9-20 10 20-6-18-9 30-10-28-9 7zM2607 3998l9-24-5 23-10 2z"/><path class="w12" d="M2981 3820l8-10 9 2-7 40-9 22-8-15zM2769 3888l9 24 9-34-6 17-9 8-9-9zM2705 3943l9-47-6 17-9 11zM2677 3923l10 42-7-32-8 18zM2593 3960l10 22-7-35-8 43z"/><path class="w13" d="M2946 3826l9-6 8-1 9-34 9 35-7 39-8-20-9 26-9-39-8 3zM2920 3832l9 18 8-17-6-22-9 16-8 6zM2876 3834l9-8 9 25 8 16-6-4-9-19-8 38-9-30zM2831 3847l10 42 8-30-6 1-9-12-9 19zM2787 3878l9-3 9-4 9 4-7-24-8 21-9 33-9-10zM2750 3881l10 35 9-28-6 6-10 3-9-54zM2714 3896l9 11 9-1 9 3-6-8-9 19-10-54-8 47z"/><path class="w14" d="M2937 3833l9-7-6 3-9-18zM2902 3867l9-60-6-37-9 93zM2849 3859l9-34 9-6 9 15-6 18-9-23-9 12-9 19zM2814 3875l8-34 9 6-6 20-9-1-9-15zM2741 3909l9-28-6-38-9 58z"/><path class="w15" d="M2911 3807l9 25-6 1-9-63z"/><path class="w11" d="M2687 3965l9 8 9-30-6-19-9 23-10-14zM2669 4012l8-89-5 28-9 29zM2622 3984l9-36 11 68-7-14-10-50-9 22zM2584 3997l9-37-5 30-10-3z"/><path class="w10" d="M2642 4016l9-13 9-11 9 20-6-32-10-20-9 20-9 22zM2603 3982l11 59 8-57-6-10-9 24-11-51z"/><path class="w13" d="M2996 3808l8 31-6-27-9-2zM2926 3855l9 13 9-14 9-53-7 25-9 7-8 17-9-18zM2900 3863l9-35-7 39-8-16zM2838 3857l9 20 9-4-7-14-8 30-10-42zM2756 3885l10 13 9 13 9-36 9 11 9-18-6 7-9 3-9 34-9-24-9 28-10-35zM2720 3944l9-38 9 4 9-62-6 61-9-3-9 1-9-11z"/><path class="w14" d="M2953 3801l8-8 9 50 9-34 8 12 9-13-7 2-8 10-9-35-9 34-8 1-9 6zM2909 3828l8 18 9 9-6-23-9-25-9 60zM2856 3873l8-24 9 9 9 5 9-43 9 43-6-12-9-25-9 8-9-15-9 6-9 34zM2802 3868l9-11 9 8 9-1 9-7-7-10-9-6-8 34-9-4-9 4zM2747 3848l9 37-6-4-9 28z"/><path class="w12" d="M2711 3951l9-7-6-48-9 47zM2683 3934l10 32-6-1-10-42z"/><path class="w11" d="M2693 3966l9-27 9 12-6-8-9 30-9-8zM2675 3987l8-53-6-11-8 89zM2628 3997l9-33-6-16-9 36zM2590 3983l10 30 10-5-7-26-10-22-9 37z"/><path class="w10" d="M2656 3997l9-15 10 5-6 25-9-20-9 11zM2637 3964l11 66-6-14-11-68zM2610 4008l9-14 9 3-6-13-8 57-11-59z"/><path class="w9" d="M2648 4030l8-33-5 6-9 13z"/><path class="w13" d="M2985 3795l8 77 9-67 8 33-6 1-8-31-9 13-8-12zM2906 3835l9 29 9-15 8-3-6 9-9-9-8-18-9 35zM2880 3881l9-55-7 37-9-5zM2762 3873l10 37 9-21 9-4 9 46 9-48-6-15-9 18-9-11-9 36-9-13-10-13zM2735 3908l10 25 8-26-6-59-9 62-9-4z"/><path class="w14" d="M2968 3813l8 9 9-27-6 14-9 34-9-50zM2950 3834l9-64-6 31-9 53zM2897 3812l9 23-6 28-9-43zM2808 3883l9-37 9 23 9 5 9-46 9 40 9-40 9 2 9 51-7-23-9-9-8 24-9 4-9-20-9 7-9 1-9-8-9 11zM2753 3907l9-34-6 12-9-37z"/><path class="w15" d="M2959 3770l9 43-7-20-8 8zM2889 3826l8-14-6 8-9 43z"/><path class="w12" d="M2932 3846l9 24 9-36-6 20-9 14-9-13zM2726 3949l9-41-6-2-9 38zM2690 3969l8-34 10 9 9 12-6-5-9-12-9 27-10-32z"/><path class="w11" d="M2717 3956l9-7-6-5-9 7zM2662 3988l9-36 10 40 9-23-7-35-8 53-10-5-9 15zM2625 4006l9-31 10 54-7-65-9 33-9-3zM2597 4018l8-33 10 16-5 7-10 5-10-30z"/><path class="w10" d="M2644 4029l9-32 9-9-6 9-8 33-11-66zM2615 4001l10 5-6-12-9 14z"/><path class="w13" d="M2974 3823l8 45 9-28 9-1 8-6 9-4-7 9-8-33-9 67-8-77-9 27-8-9zM2930 3840l9 22 9-33 8 24-6-19-9 36-9-24-8 3zM2912 3872l9-38-6 30-9-29zM2859 3902l9-20-6-54-9 40zM2805 3921l9-64-6 26-9 48zM2750 3916l10-5 9 13 9-7-6-7-10-37-9 34-8 26z"/><path class="w15" d="M2965 3826l9-3-6-10-9-43zM2841 3835l9-5-6-2-9 46zM2814 3857l9-21-6 10-9 37z"/><path class="w14" d="M2956 3853l9-27-6-56-9 64zM2921 3834l9 6-6 9-9 15zM2868 3882l9-14 9-24 9 16 9-2 8 14-6-37-9-23-8 14-9 55-9-51-9-2zM2850 3830l9 72-6-34-9-40zM2823 3836l9 65 9-66-6 39-9-5-9-23z"/><path class="w12" d="M2778 3917l9 35 9-35 9 4-6 10-9-46-9 4-9 21zM2733 3951l9-6 8-29-5 17-10-25-9 41z"/><path class="w11" d="M2696 3996l10 1 8-39 10 51 9-58-7-2-9 7-9-12-10-9-8 34zM2668 3983l9-20 10 19-6 10-10-40-9 36zM2602 4008l10 3 9-18-6 8-10-16-8 33z"/><path class="w10" d="M2687 3982l9 14-6-27-9 23zM2621 3993l11 52 9-27 8-40 10 25 9-20-6 5-9 9-9 32-10-54-9 31-10-5z"/><path class="w12" d="M3014 3843l8 40-5-54-9 4zM2989 3852l8 10-6-22-9 28zM2784 3889l10 57 8-39 10 21-7-7-9-4-9 35-9-35zM2739 3968l9-36 9 3-7-19-8 29-9 6z"/><path class="w13" d="M2997 3862l9-7 8-12-6-10-8 6-9 1zM2980 3809l9 43-7 16-8-45zM2936 3868l9-35 9 55 9-80-7 45-8-24-9 33-9-22zM2901 3853l9 19 9 1 9-25-7-14-9 38-8-14-9 2zM2865 3885l9 0 9-40-6 23-9 14-9 20zM2812 3928l8-26-6-45-9 64zM2757 3935l9-35 9 1 9-12-6 28-9 7-9-13-10 5z"/><path class="w14" d="M2963 3808l9 11 8-10-6 14-9 3-9 27zM2928 3848l8 20-6-28-9-6zM2883 3845l9 33 9-25-6 7-9-16-9 24zM2856 3846l9 39-6 17-9-72zM2829 3840l9 65 9-60-6-10-9 66-9-65z"/><path class="w15" d="M2847 3845l9 1-6-16-9 5zM2820 3902l9-62-6-4-9 21z"/><path class="w11" d="M2674 3966l9 18 10-8 9-7 9-1 9-24 10 23 9 1-6-17-9 58-10-51-8 39-10-1-9-14-10-19-9 20zM2609 4022l9-9 9-24 10 15 8-61 11 73-7-38-8 40-9 27-11-52-9 18-10-3z"/><path class="w10" d="M2656 4016l10 28 8-78-6 17-9 20-10-25z"/><path class="w12" d="M2995 3877l8 12 9-21 8 1 9-7-7 21-8-40-8 12-9 7-8-10zM2951 3872l9 43 9-43-6-64-9 80-9-55zM2791 3944l9-8 9-9 9-18 9 34-7-41-8 26-10-21-8 39-10-57zM2745 3959l9 2-6-29-9 36zM2718 3998l8-63 10 58-6-26-10-23-9 24z"/><path class="w13" d="M2986 3856l9 21-6-25-9-43zM2872 3896l9-9 8 5 9-6 9-12 9-15 9-6 9 16 9-26 8 29-6-39-9 35-8-20-9 25-9-1-9-19-9 25-9-33-9 40-9 0zM2827 3943l9-39-7-64-9 62zM2754 3961l8-64 10 50 9-50 10 47-7-55-9 12-9-1-9 35-9-3z"/><path class="w14" d="M2969 3872l9-21 8 5-6-47-8 10-9-11zM2863 3853l9 43-7-11-9-39zM2836 3904l9-12 9-20-7-27-9 60-9-65z"/><path class="w15" d="M2854 3872l9-19-7-7-9-1z"/><path class="w11" d="M2736 3993l9-34-6 9-9-1zM2680 3995l10 4 9 10 9-17 10 6-7-30-9 1-9 7-10 8-9-18zM2614 4018l10-3 9 6 10-2 10 41-8-117-8 61-10-15-9 24-9 9z"/><path class="w10" d="M2653 4060l9-44 9-1 9-20-6-29-8 78-10-28-11-73z"/><path class="w12" d="M3001 3852l9 15 8 2 9 11 8-2-6-16-9 7-8-1-9 21-8-12zM2967 3834l8 49-6-11-9 43zM2824 3941l9-26 9 6-6-17-9 39-9-34zM2797 3921l9-13-6 28-9 8zM2751 3929l9 13-6 19-9-2zM2723 3958l10 25-7-48-8 63z"/><path class="w13" d="M2975 3883l9-35 9 3 8 1-6 25-9-21-8-5-9 21zM2949 3858l9 1 9-25-7 81-9-43-8-29zM2878 3884l9 17 9-38 9 8 9-10 8 16 9 7 9-33-6 18-9-16-9 6-9 15-9 12-9 6-8-5-9 9zM2842 3921l9-34 9 24-6-39-9 20-9 12zM2806 3908l9-10 9 43-6-32-9 18-9 9zM2760 3942l9-4 9-35 9 14 10 4-6 23-10-47-9 50-10-50-8 64z"/><path class="w14" d="M2940 3851l9 7-6-15-9 26zM2860 3911l9-19 9-8-6 12-9-43-9 19z"/><path class="w11" d="M2733 3983l9-8 9-46-6 30-9 34-10-58zM2704 3964l10 36 9-42-5 40-10-6-9 17zM2620 4017l10 6 9-20-6 18-9-6-10 3z"/><path class="w10" d="M2639 4003l10 29 9-11 10-11 9 4 9-13 10 31 8-68-5 45-9-10-10-4-9 20-9 1-9 44-10-41-10 2z"/><path class="w12" d="M3008 3840l8 60 9-50 9 10 8-5-7 23-8 2-9-11-8-2-9-15zM2929 3902l8 8-6-26-9-7zM2821 3936l9 23 9-32 9 8 9 3 9 18 9-56-6-8-9 19-9-24-9 34-9-6-9 26-9-43zM2757 3970l9 4 9-22-6-14-9 4-9-13zM2710 3944l10 30 9-8 10 5-6 12-10-25-9 42-10-36z"/><path class="w13" d="M2982 3837l8 38 9 12 9-47-7 12-8-1-9-3-9 35zM2955 3857l9 43 9-61-6-5-9 25-9-1zM2937 3910l9-36-6-23-9 33zM2875 3900l9 4 9-6 9-5 9 23-6-45-9-8-9 38-9-17-9 8zM2775 3952l10 1 9-33 9 34 9-25 9 7-6-38-9 10-9 13-10-4-9-14-9 35z"/><path class="w14" d="M2973 3839l9-2-7 46-8-49zM2946 3874l9-17-6 1-9-7zM2911 3916l9-74 9 60-7-25-8-16-9 10z"/><path class="w11" d="M2739 3971l9 34 9-35-6-41-9 46-9 8zM2702 3998l8-54-6 20-8 68zM2674 4010l9-10-6 14-9-4zM2627 4034l9-25 8-28 11 33-6 18-10-29-9 20-10-6z"/><path class="w10" d="M2683 4000l10 27 9-29-6 34-10-31-9 13zM2655 4014l10 47 9-51-6 0-10 11-9 11z"/><path class="w12" d="M3040 3880l8-9-6-16-8 5zM3014 3860l8 23-6 17-8-60zM2935 3893l9 14 9-10-7-23-9 36-8-8zM2908 3928l9-6-6-6-9-23zM2881 3967l9-39-6-24-9-4zM2845 3908l10 50 9-65 9 28-7 35-9-18-9-3-9-8zM2763 3945l9 4 10 26 9-10 9-4 9 4 9-34 9 23 9-59-6 64-9-23-9-7-9 25-9-34-9 33-10-1-9 22-9-4zM2717 3985l10 20-7-31-10-30z"/><path class="w13" d="M3022 3883l11-94 7 91-6-20-9-10-9 50zM2997 3831l9 28 8 1-6-20-9 47-9-12zM2953 3897l9-26 8 18 9-24-6-26-9 61-9-43-9 17zM2917 3922l9-58 9 29-6 9-9-60-9 74zM2890 3928l10-41 8 41-6-35-9 5-9 6zM2836 3895l9 13-6 19-9 32z"/><path class="w14" d="M2979 3865l9-8 9-26-7 44-8-38-9 2z"/><path class="w11" d="M2873 3921l8 46-6-67-9 56zM2727 4005l9-23 9 15 9-3 9-49-6 25-9 35-9-34-10-5-9 8zM2709 4046l8-61-7-41-8 54zM2679 4003l10 5-6-8-9 10zM2632 4031l10-2 9-7 10 6-6-14-11-33-8 28-9 25z"/><path class="w10" d="M2689 4008l10 20 10 18-7-48-9 29-10-27zM2661 4028l10 26 8-51-5 7-9 51-10-47z"/><path class="w12" d="M3046 3884l9-29-7 16-8 9zM3020 3877l9 5-7 1-8-23zM2941 3897l9 11 9-2-6-9-9 10-9-14zM2897 3949l9 2 9-27 9-20-7 18-9 6-8-41-10 41zM2870 3966l9-43-6-2-9-28zM2815 3965l10-16 9 1 9-4 9 26-7-64-9-13-9 59-9-23-9 34zM2779 3959l9-37 9-1 9 35-6 5-9 4-9 10-10-26zM2760 3976l9-48-6 17-9 49zM2723 3957l9 22-5 26-10-20z"/><path class="w13" d="M3029 3882l9-13 8 15-6-4-7-91-11 94zM3003 3882l9-19 8 14-6-17-8-1-9-28zM2959 3906l9-38 9-4 9 23 9-33-7 3-9 8-9 24-8-18-9 26zM2924 3904l8 14 9-21-6-4-9-29-9 58zM2769 3928l10 31-7-10-9-4z"/><path class="w14" d="M2995 3854l8 28-6-51-9 26z"/><path class="w10" d="M2888 3983l9-34-7-21-9 39zM2695 4026l11 44-7-42-10-20zM2667 4020l9-12 10 37-7-42-8 51-10-26z"/><path class="w11" d="M2879 3923l9 60-7-16-8-46zM2852 3972l9-1 9-5-6-73-9 65-10-50zM2806 3956l9 9-6 0-9-4zM2732 3979l10 2 9-6 9 1-6 18-9 3-9-15-9 23zM2714 4023l9-66-6 28-8 61zM2686 4045l9-19-6-18-10-5zM2638 4005l10 23 10 4 9-12-6 8-10-6-9 7-10 2z"/><path class="w9" d="M2706 4070l8-47-5 23-10-18z"/><path class="w12" d="M3044 3865l9 27 9-45-7 8-9 29-8-15zM2921 3922l9-14 9 38 9-38 9-5 8 14 9-9-6-40-9 38-9 2-9-11-9 21-8-14-9 20zM2876 3938l9 12-6-27-9 43zM2804 3987l9-16-7-15-9-35zM2747 3951l10 41 10-6 9-16 9 18 9-37-6-29-9 37-10-31-9 48-9-1-9 6z"/><path class="w13" d="M3010 3854l8 35 9-19 9-3 8-2-6 4-9 13-9-5-8-14-9 19zM2974 3908l9 10 9-64-6 33-9-23-9 4zM2794 3951l10 36-7-66-9 1zM2729 3975l9-32 9 8-5 30-10-2-9-22z"/><path class="w14" d="M2992 3854l9 5 9-5-7 28-8-28-9 33z"/><path class="w11" d="M2885 3950l9-5 9 1 9 3 9-27-6 2-9 27-9-2-9 34-9-60zM2867 3975l9-37-6 28-9 5zM2813 3971l9 37 9-28 9 52-6-82-9-1-10 16-9-9zM2721 4050l8-75-6-18-9 66zM2645 4045l9-16-6-1-10-23z"/><path class="w10" d="M2840 4032l9-48 9 41 9-50-6-4-9 1-9-26-9 4zM2654 4029l10 36 9-18 10 20 10-4 8-44 10 29-5 22-11-44-9 19-10-37-9 12-9 12-10-4z"/><path class="w9" d="M2711 4048l10 2-7-27-8 47z"/><path class="w13" d="M3059 3906l10-72-7 13-9 45zM2963 3904l9-28 9-28 9 24 8 17 9 21 9 0 9-35 9-2 9-32 8 21-7 3-8 2-9 3-9 19-8-35-9 5-9-5-9 64-9-10-9 9-8-14zM2753 3928l11 75-7-11-10-41zM2735 3963l10 12-7-32-9 32z"/><path class="w12" d="M3051 3862l8 44-6-14-9-27zM2945 3939l9-21 9-14-6-1-9 5-9 38zM2927 3948l9-13-6-27-9 14zM2883 3945l9-4-7 9-9-12zM2764 4003l8-60 10 32 9-22 10 47-7-49-9 37-9-18-9 16-10 6zM2726 3998l9-35-6 12-8 75z"/><path class="w11" d="M2936 3935l9 4-6 7-9-38zM2892 3941l8 71 10-71 8 17 9-10-6-26-9 27-9-3-9-1-9 5zM2873 3991l10-46-7-7-9 37zM2801 4000l9-28 9 8-6-9-9 16-10-36zM2650 4019l11 45-7-35-9 16z"/><path class="w9" d="M2846 4031l9-19 9-1 9-20-6-16-9 50-9-41-9 48zM2828 4019l10 83-7-122-9 28zM2689 4035l11 71 8-47-7-40-8 44-10 4z"/><path class="w8" d="M2838 4102l8-71-6 1-9-52z"/><path class="w10" d="M2819 3980l9 39-6-11-9-37zM2708 4059l9-38 9-23-5 52-10-2-10-29zM2661 4064l9-23 9-21 10 15-6 32-10-20-9 18-10-36z"/><path class="w14" d="M2745 3975l8-47-6 23-9-8z"/><path class="w13" d="M3066 3893l9-33-6-26-10 72zM3022 3910l10-57-7 22-9 35zM3005 3869l9 4-7 37-9-21zM2970 3903l8 4-6-31-9 28zM2779 3961l9 19-6-5-10-32zM2742 4001l9-24 9-27 10 51-6 2-11-75-8 47-10-12z"/><path class="w12" d="M3058 3860l8 33-7 13-8-44zM3014 3873l8 37-6 0-9 0zM2943 3937l9-28 9 11 9-17-7 1-9 14-9 21-9-4zM2788 3980l9-31 10 30-6 21-10-47-9 22zM2770 4001l9-40-7-18-8 60zM2723 3997l9 7 10-3-7-38-9 35-9 23z"/><path class="w14" d="M3032 3853l8 4 9 9 9-6-7 2-8-21-9 32-9 2zM2997 3828l8 41-7 20-8-17zM2978 3907l10-59-7 0-9 28z"/><path class="w15" d="M2988 3848l9-20-7 44-9-24z"/><path class="w11" d="M2916 4008l9-56 9 33 9-48-7-2-9 13-9 10-8-17zM2889 3992l9 4-6-55-9 4zM2807 3979l9 6 9-1-6-4-9-8-9 28zM2714 4021l9-24-6 24-9 38zM2657 4046l10 7-6 11-11-45z"/><path class="w10" d="M2898 3996l9 2 9 10-6-67-10 71-8-71zM2871 4000l9-5 9-3-6-47-10 46-9 20zM2667 4053l9-8 10 37 9-26-6-21-10-15-9 21-9 23z"/><path class="w9" d="M2862 4041l9-41-7 11-9 1zM2825 3984l10 116-7-81-9-39zM2695 4056l10 31 9-66-6 38-8 47-11-71z"/><path class="w7" d="M2853 4115l9-74-7-29-9 19z"/><path class="w1" d="M2835 4100l9 110 9-95-7-84-8 71-10-83z"/><path class="w12" d="M3063 3911l9-6 9-21-6-24-9 33-8-33zM2949 3953l9-20 9-7 9 23-6-46-9 17-9-11-9 28zM2776 3988l9-20 10 36 9-38-7-17-9 31-9-19-9 40zM2729 4012l10-8 9-2 9-47-6 22-9 24-10 3-9-7zM2662 4009l10 3-5 41-10-7z"/><path class="w13" d="M3055 3871l8 40-5-51-9 6zM3021 3872l8-5-7 43-8-37zM2976 3949l9-71-7 29-8-4zM2804 3966l9 2-6 11-10-30zM2757 3955l9 0 10 33-6 13-10-51-9 27z"/><path class="w14" d="M3048 3829l7 42-6-5-9-9zM3029 3867l10-33-7 19-10 57zM3003 3901l9-24 9-5-7 1-9-4-8-41zM2985 3878l9-18-6-12-10 59z"/><path class="w15" d="M3039 3834l9-5-8 28-8-4zM2994 3860l9 41-6-73-9 20z"/><path class="w10" d="M2922 4005l9-20 9 4 9-36-6-16-9 48-9-33-9 56zM2886 4010l9-12 9-26 9 41-6-15-9-2-9-4-9 3zM2682 4039l10 17 9-1-6 1-9 26-10-37z"/><path class="w9" d="M2913 4013l9-8-6 3-9-10zM2868 4025l9 3 9-18-6-15-9 5-9 41zM2831 3968l10 65-6 67-10-116zM2701 4055l11 51 8-78-6-7-9 66-10-31z"/><path class="w7" d="M2859 4055l9-30-6 16-9 74z"/><path class="w1" d="M2841 4033l9 118 9-96-6 60-9 95-9-110z"/><path class="w11" d="M2813 3968l9 37 9-37-6 16-9 1-9-6zM2720 4028l9-16-6-15-9 24zM2672 4012l10 27-6 6-9 8z"/><path class="w12" d="M3061 3911l9 6 9-22 9-34-7 23-9 21-9 6-8-40zM2982 3963l10-93-7 8-9 71zM2956 3954l9-28 8 7-6-7-9 7-9 20zM2782 3977l10 9 9 6 9-23 9 13 10 15-7 8-9-37-9-2-9 38-10-36-9 20zM2735 4019l10 1 9-28-6 10-9 2-10 8zM2670 4071l8-37 10-3-6 8-10-27-10-3z"/><path class="w13" d="M3053 3873l8 38-6-40-7-42zM3009 3892l8 47 10-66-6-1-9 5-9 24zM2773 3975l9 2-6 11-10-33zM2754 3992l9-42-6 5-9 47z"/><path class="w15" d="M3036 3859l9-17 8 31-5-44-9 5-10 33zM2992 3870l9-33-7 23-9 18z"/><path class="w14" d="M3027 3873l9-14-7 8-8 5zM3001 3837l8 55-6 9-9-41zM2763 3950l10 25-7-20-9 0z"/><path class="w11" d="M2973 3933l9 30-6-14-9-23zM2902 3983l9-24-7 13-9 26zM2829 3997l9-11-7-18-9 37zM2726 4031l9-12-6-7-9 16zM2688 4031l10 7-6 18-10-17z"/><path class="w10" d="M2938 3970l8 8 10-24-7-1-9 36-9-4zM2911 3959l9 33-7 21-9-41zM2838 3986l9 54-6-7-10-65zM2718 4085l8-54-6-3-8 78zM2698 4038l10 36-7-19-9 1z"/><path class="w9" d="M2920 3992l8 30 10-52-7 15-9 20-9 8zM2892 4042l10-59-7 15-9 12zM2865 4007l9 15-6 3-9 30zM2708 4074l10 11-6 21-11-51z"/><path class="w7" d="M2883 4124l9-82-6-32-9 18zM2847 4040l9-45 9 12-6 48-9 96-9-118z"/><path class="w8" d="M2874 4022l9 102-6-96-9-3z"/><path class="w13" d="M3085 3897l10-26-7-10-9 34zM3060 3886l8 2-7 23-8-38zM3024 3926l10-42 8 43 9-30-6-55-9 17-9 14-10 66zM2989 3934l9-45-6-19-10 93zM2779 3938l9 32 10-11 9 22 9-24-6 12-9 23-9-6-10-9-9-2zM2761 4025l8-71-6-4-9 42z"/><path class="w12" d="M3068 3888l9 16 8-7-6-2-9 22-9-6zM3016 3920l8 6-7 13-8-47zM2935 3959l10-125 8 149-7-5-8-8-10 52zM2816 3957l10 39 9-24 9 2-6 12-9 11-10-15-9-13zM2751 4025l10 0-7-33-9 28zM2685 4042l9-6-6-5-10 3z"/><path class="w14" d="M3051 3897l9-11-7-13-8-31zM3008 3855l8 65-7-28-8-55zM2769 3954l10-16-6 37-10-25z"/><path class="w15" d="M2998 3889l10-34-7-18-9 33z"/><path class="w11" d="M2962 3978l9 8 9-16 9-36-7 29-9-30-8-7-9 28zM2844 3974l9 17-6 49-9-54zM2733 4079l9-40 9-14-6-5-10-1-9 12zM2694 4036l11 42-7-40-10-7zM2675 4039l10 3-7-8-8 37z"/><path class="w10" d="M2953 3983l9-5-6-24-10 24zM2908 4010l9-9 9 18 9-60-7 63-8-30-9-33-9 24zM2853 3991l10 38 9-12-7-10-9-12-9 45zM2724 4076l9 3-7-48-8 54zM2705 4078l9-16-6 12-10-36z"/><path class="w9" d="M2899 4090l9-80-6-27-10 59zM2872 4017l9 89-7-84-9-15zM2714 4062l10 14-6 9-10-11z"/><path class="w1" d="M2881 4106l8 108 10-124-7-48-9 82-9-102z"/><path class="w12" d="M3083 3902l9 7 9-3-6-35-10 26-8 7zM3022 3922l9 4 8 10 10-31-7 22-8-43-10 42-8-6zM2942 3984l8 9 9 23-6-33-8-149-10 125zM2851 3973l9 30-7-12-9-17zM2823 3960l9 51 9-43-6 4-9 24-10-39zM2757 4014l10-2 9-13-7-45-8 71-10 0z"/><path class="w13" d="M3076 3829l7 73-6 2-9-16zM3049 3905l9-40 8 25-6-4-9 11-9 30zM2995 3962l10-62-7-11-9 45zM2841 3968l10 5-7 1-9-2zM2795 3958l9 41 9-49 10 10-7-3-9 24-9-22-10 11z"/><path class="w14" d="M3066 3890l10-61-8 59-8-2zM3014 3861l8 61-6-2-8-65zM2776 3999l9-45 10 4-7 12-9-32-10 16z"/><path class="w15" d="M3005 3900l9-39-6-6-10 34z"/><path class="w11" d="M2986 3958l9 4-6-28-9 36zM2933 3978l9 6-7-25-9 60zM2860 4003l9-1-6 27-10-38zM2749 4081l8-67-6 11-9 14zM2682 4064l10 18 8-48 10-5 10 6-6 27-9 16-11-42-9 6-10-3z"/><path class="w10" d="M2959 4016l9-32 9-8 9-18-6 12-9 16-9-8-9 5zM2914 4008l9 5 10-35-7 41-9-18-9 9zM2869 4002l9-11-6 26-9 12zM2720 4035l9 19 10-16 10 43-7-42-9 40-9-3-10-14z"/><path class="w8" d="M2905 4040l9-32-6 2-9 80z"/><path class="w1" d="M2887 4037l9 175 9-172-6 50-10 124-8-108z"/><path class="w9" d="M2878 3991l9 46-6 69-9-89z"/><path class="w12" d="M3091 3884l8 22 9-11-7 11-9 3-9-7zM3029 3919l8 16 9 10 9-7-6-33-10 31-8-10-9-4zM2993 3951l9-29-7 40-9-4zM2829 3967l10 26 9 2 9 20-6-42-10-5-9 43-9-51zM2764 4024l9 11 9-48-6 12-9 13-10 2zM2717 4062l9-39-6 12-10-6z"/><path class="w13" d="M3055 3938l10-64 7 51 9-14 10-27-8 18-7-73-10 61-8-25-9 40zM3020 3897l9 22-7 3-8-61zM3002 3922l9-4-6-18-10 62zM2801 3995l9-22 10 11 9-17-6-7-10-10-9 49-9-41zM2782 3987l10-6-7-27-9 45z"/><path class="w14" d="M3011 3918l9-21-6-36-9 39zM2792 3981l9 14-6-37-10-4z"/><path class="w11" d="M2975 3969l9-21 9 3-7 7-9 18-9 8zM2857 4015l9-4 9-12 10 18-7-26-9 11-9 1-9-30zM2726 4023l10 24 9-35 10 47 9-35-7-10-8 67-10-43-10 16-9-19zM2707 4080l10-18-7-33-10 5z"/><path class="w10" d="M2921 4008l9-27 9 18 9-1 9-19 9 16 9-26-7 15-9 32-9-23-8-9-9-6-10 35-9-5zM2885 4017l9 16-7 4-9-46zM2688 4081l10 23 9-24-7-46-8 48-10-18z"/><path class="w9" d="M2912 4027l9-19-7 0-9 32z"/><path class="w2" d="M2894 4033l8 54 10-60-7 13-9 172-9-175z"/><path class="w12" d="M3097 3902l8 30 9-25-6-12-9 11-8-22zM3036 3908l7 52-6-25-8-16zM2981 3975l10-51 9 3 8 53 9-7-6-55-9 4-9 29-9-3-9 21zM2854 3973l9-13 10 33 9-17-7 23-9 12-9 4-9-20zM2770 3992l10 51 9-47-7-9-9 48-9-11zM2722 4024l10 21 10 3-6-1-10-24-9 39z"/><path class="w13" d="M3061 3947l10-66 8 27 10-43 8 37-6-18-10 27-9 14-7-51-10 64zM3017 3973l10-52 9-13-7 11-9-22-9 21zM2789 3996l9-8 10 20 9-37 9 16 10-22 9-18 9 26-6 22-9-2-10-26-9 17-10-11-9 22-9-14-10 6z"/><path class="w11" d="M3043 3960l9-12 9-1-6-9-9 7-9-10zM2927 4006l10-33 9 11 9-7 9 6-7-4-9 19-9 1-9-18-9 27zM2882 3976l9 67-6-26-10-18zM2762 4102l8-110-6 32-9 35zM2742 4048l10 36-7-72-9 35zM2714 4090l8-66-5 38-10 18z"/><path class="w10" d="M2964 3983l8 26 9-34-6-6-9 26-9-16zM2918 4041l9-35-6 2-9 19zM2891 4043l9-8-6-2-9-16zM2752 4084l10 18-7-43-10-47zM2694 4055l10 11 10 24-7-10-9 24-10-23z"/><path class="w8" d="M2900 4035l9 69 9-63-6-14-10 60-8-54z"/><path class="w11" d="M3111 3968l9-51-6-10-9 25zM3015 3946l9 5-7 22-9 7zM2934 3990l9 6 9 8 9-3-6-24-9 7-9-11-10 33zM2888 3985l9 49-6 9-9-67zM2739 4067l9-30-6 11-10-3zM2701 4098l9-49 10 41 9-38-7-28-8 66-10-24-10-11z"/><path class="w12" d="M3104 3901l7 67-6-36-8-30zM3042 3945l9-10 9-18 9-10-8 40-9 1-9 12-7-52zM3024 3951l9-26-6-4-10 52zM2988 3994l9-34 9 18 9-32-7 34-8-53-9-3-10 51zM2879 4015l9-30-6-9-9 17zM2777 4060l9-21 9-24-6-19-9 47-10-51zM2729 4052l10 15-7-22-10-21z"/><path class="w13" d="M3069 3907l9-12 8 24 9-11 9-7-7 1-8-37-10 43-8-27-10 66zM3033 3925l9 20-6-37-9 13zM2870 3942l9 73-6-22-10-33zM2795 4015l10-22 9-9 9-26 10 64 9-33-6-24-10 22-9-16-9 37-10-20-9 8z"/><path class="w10" d="M2961 4001l9 27 9-36 9 2-7-19-9 34-8-26-9-6zM2925 4024l9-34-7 16-9 35zM2897 4034l10-22-7 23-9 8zM2768 4146l9-86-7-68-8 110zM2748 4037l10 53-6-6-10-36z"/><path class="w8" d="M2915 4062l10-38-7 17-9 63zM2758 4090l10 56-6-44-10-18z"/><path class="w9" d="M2907 4012l8 50-6 42-9-69z"/><path class="w14" d="M2842 3989l9-42 10 18 9-23-7 18-9 13-9-26-9 18z"/><path class="w11" d="M3118 3948l9-34-7 3-9 51zM2994 4019l10-38 9-7 9-10-7-18-9 32-9-18-9 34zM2950 3982l9-2 8 32-6-11-9 3-9-8zM2931 4004l10-29-7 15-9 34zM2783 4033l9 1-6 5-9 21zM2707 4096l10-4 9-30 10 26 9-27 10-8 9-6-6 43-10-53-9 30-10-15-9 38-10-41-9 49z"/><path class="w12" d="M3111 3869l7 79-7 20-7-67zM3093 3916l8 13-6-21-9 11zM3022 3964l9-9 9-34 8 33 10-41-7 22-9 10-9-20-9 26-9-5zM2941 3975l9 7-7 14-9-6zM2876 3993l10 20 9-41 9 29-7 33-9-49-9 30-9-73zM2839 4005l10 23-7-39-9 33zM2792 4034l10-22-7 3-9 24z"/><path class="w13" d="M3101 3929l10-60-7 32-9 7zM3058 3913l8 19 9-7 8 20 10-29-7 3-8-24-9 12-9 10-9 18zM2867 3979l9 14-6-51-9 23zM2849 4028l9-69-7-12-9 42zM2830 3969l9 36-6 17-10-64zM2802 4012l9-24 9 17-6-21-9 9-10 22z"/><path class="w10" d="M2967 4012l9-2 10-31 8 40-6-25-9-2-9 36-9-27zM2904 4001l9 44 9-38 9-3-6 20-10 38-8-50-10 22zM2774 4093l9-60-6 27-9 86z"/><path class="w14" d="M2858 3959l9 20-6-14-10-18zM2820 4005l10-36-7-11-9 26z"/><path class="w9" d="M2764 4047l10 46-6 53-10-56z"/><path class="w11" d="M3125 3932l8 11-6-29-9 34zM2983 4003l10-42 8 30 9-14 9-5 9 22 9-21 8 34-5-86-9 34-9 9-9 10-9 7-10 38-8-40-10 31zM2911 4012l9-14 9 18 9 7 9-5 9 0 9-11 9-10-7 15-8-32-9 2-9-7-10 29-9 3-9 38-9-44zM2761 4082l9-29 10 27 9-67-6 20-9 60-10-46-9 6zM2713 4062l10 10 9 3 10 5 9-60-6 41-9 27-10-26-9 30-10 4z"/><path class="w13" d="M3108 3935l9-32 8 29-7 16-7-79-10 60zM3055 3924l9 21 9-15 9-2-7-3-9 7-8-19-10 41zM2855 3977l9 46-6-64-9 69zM2827 4022l9-3 10-18-7 4-9-36-10 36z"/><path class="w12" d="M3082 3928l8 10 9 1 9-4-7-6-8-13-10 29-8-20zM3045 4007l10-83-7 30-8-33zM2864 4023l10 28 9-43 9-21 9 5 10 20-7-11-9-29-9 41-10-20-9-14-9-20zM2846 4001l9-24-6 51-10-23zM2789 4013l10 35 9-24 10 22 9-24-7-17-9-17-9 24-10 22-9-1zM2751 4020l10 62-6-29-10 8z"/><path class="w10" d="M2974 3997l9 6-7 7-9 2z"/><path class="w11" d="M3131 3947l10-20-8 16-8-11zM3096 3973l9-8 9-18-6-12-9 4-9-1zM3044 3940l8 49 9 0-6-65-10 83-8-34zM3026 3972l9-5-7 27-9-22zM3008 3987l9-25-7 15-9 14zM2935 3998l10 6 9-29 9 19 9 19 9-11 9-33-7 34-9-6-9 10-9 11-9 0-9 5-9-7zM2758 4074l10 44 9-79 9 22-6 19-10-27-9 29-10-62zM2720 4091l9-23-6 4-10-10z"/><path class="w12" d="M3114 3947l10-39 7 39-6-15-8-29-9 32zM3089 3929l7 44-6-35-8-10zM3061 3989l10-42 9-25-7 8-9 15-9-21zM3035 3967l9-27-7 33-9 21zM3017 3962l9 10-7 0-9 5zM2990 3969l9 11 9 7-7 4-8-30-10 42zM2871 3993l9 3 9 23 10-30 9 28 9-38 9 7 9 12-6 18-9-18-9 14-10-20-9-5-9 21-9 43-10-28zM2786 4061l10-49 9 63 10-52 9 15 9-17 10-27-7 25-9 3-9 24-10-22-9 24-10-35-9 67zM2729 4068l9-36 10 14 10 28-7-54-9 60-10-5-9-3z"/><path class="w13" d="M3080 3922l9 7-7-1-9 2zM2843 3994l9 12 10 4 9-17-7 30-9-46-9 24-10 18z"/><path class="w11" d="M3137 3976l10-25-6-24-10 20zM3093 4017l10-39 10-40-8 27-9 8-7-44zM3059 3966l9 3 9-5-6-17-10 42-9 0zM2969 4019l10-54 9 30 8 16-6-42-9 33-9 11-9-19zM2942 4026l9 7-6-29-10-6zM2896 4061l9-9 9-32-6-3-9-28-10 30zM2802 4067l10 11 9-45-6-10-10 52-9-63zM2764 4075l10-1 9-7-6-28-9 79-10-44zM2726 4111l10-22-7-21-9 23z"/><path class="w12" d="M3113 3938l8-5 9 8 7 35-6-29-7-39-10 39-9 18zM3077 3964l9-26 7 79-4-88-9-7-9 25zM2996 4011l10-85 9 57 9-16 8 22 10-43 9 18 8 2-7 23-8-49-9 27-9 5-9-10-9 25-9-7-9-11zM2951 4033l10-61 8 47-6-25-9-19-9 29zM2914 4020l10-5 9-19 9 30-7-28-9-12-9-7-9 38zM2868 4040l9-16 10-6 9 43-7-42-9-23-9-3-9 17zM2830 3982l10 60 9-12-6-36-10 27-9 17zM2783 4067l10-40 9 40-6-55-10 49-9-22zM2754 4046l10 29-6-1-10-28zM2736 4089l9-21-7-36-9 36z"/><path class="w13" d="M2849 4030l10-47 9 57-6-30-10-4-9-12zM2821 4033l9-51-6 56-9-15zM2745 4068l9-22-6 0-10-14z"/><path class="w10" d="M3135 3985l9 10 9-22-6-22-10 25-7-35zM3101 3973l9-9-7 14-10 39z"/><path class="w11" d="M3128 3944l7 41-5-44-9-8zM3092 3986l9-13-8 44-7-79zM3056 4006l10-26 9-1 9-6-7-9-9 5-9-3-8-2zM2994 4012l9-6-7 5-8-16zM2939 4050l10-48 9 31-7 0-9-7-9-30zM2893 4001l10 39 9-7 9 29 9-76-6 29-10 5-9 32-9 9-9-43zM2809 4068l9-24-6 34-10-11zM2780 4080l10 43 9-78-6-18-10 40-9 7z"/><path class="w12" d="M3110 3964l9-26 9 6-7-11-8 5-10 40zM3084 3973l8 13-6-48-9 26zM3003 4006l10-56 8 67 10-59 8 32 9-10 8 26-5-42-9-18-10 43-8-22-9 16-9-57-10 85zM2958 4033l9-48 9 14 9 4 9 9-6-17-9-30-10 54-8-47-10 61zM2930 3986l9 64-6-54-9 19zM2837 4027l10 29 9-19-7-7-9 12-10-60zM2818 4044l10-13-7 2-9 45zM2799 4045l10 23-7-1-9-40zM2732 4053l10 18 9 0 10 6 9-39 10 42-6-6-10 1-10-29-9 22-9 21-10 22z"/><path class="w13" d="M2856 4037l9-21 10-18 9-12 9 15-6 17-10 6-9 16-9-57-10 47zM2828 4031l9-4-7-45-9 51z"/><path class="w11" d="M3144 3935l7 33 10-32-8 37-9 22-9-10zM3115 4024l12-96-8 10-9 26zM3082 3968l8 16 9-14 9 18-7-15-9 13-8-13-9 6zM3046 3986l9 0 9-13 9-3-7 10-10 26-8-26-9 10zM3027 4023l10-48-6-17-10 59zM2992 3998l8 35-6-21-9-9zM2909 4035l9 11 10-10 9-2 9 17 9-52-6 3-10 48-9-64-9 76-9-29-9 7zM2815 4051l10 32-7-39-9 24zM2758 4096l10 39 9-36 10 8 9-50 10-3-7-9-9 78-10-43-10-42-9 39-10-6z"/><path class="w12" d="M3127 3928l8 13 9-6-9 50-7-41-9-6zM3073 3970l9-2-7 11-9 1zM3037 3975l9 11-7 4-8-32zM3009 4040l10-58 8 41-6-6-8-67-10 56zM2955 3999l9 8 10-25 9 0 9 16-7 5-9-4-9-14-9 48-9-31zM2900 3976l9 59-6 5-10-39zM2853 4007l9 16 10 5-7-12-9 21-9 19zM2825 4083l9-40-6-12-10 13zM2806 4054l9-3-6 17-10-23zM2739 4102l9-64 10 58-7-25-9 0-10-18z"/><path class="w10" d="M3108 3988l7 36-5-60-9 9zM3000 4033l9 7-6-34-9 6z"/><path class="w13" d="M2872 4028l9-25 10 29 9-56-7 25-9-15-9 12-10 18zM2834 4043l9-53 10 17-6 49-10-29-9 4z"/><path class="w11" d="M3150 3960l8 13 10-29-7-8-10 32-7-33zM3123 3989l11-67-7 6-12 96zM3088 3979l9 8-7-3-8-16zM3026 3951l8 82 10-64-7 6-10 48-8-41zM2989 4037l9-4 10-26 9-27-8 60-9-7-8-35-9-16zM2916 4063l9-14 10-53 8 58 10-21 9 7-7-41-9 52-9-17-9 2-10 10-9-11zM2822 4105l9-42 10 5-7-25-9 40-10-32zM2793 4111l10-28-7-26-9 50zM2764 4060l10 53-6 22-10-39z"/><path class="w12" d="M3142 3935l8 25-6-25-9 6zM3097 3987l10-67 8 48-7 20-9-18-9 14zM3044 3969l9 15 9-32 9 12 8 29 9-14-6-11-9 2-9 3-9 13-9 0-9-11zM3017 3980l9-29-7 31-10 58zM2962 4040l9-40 9 8 9 29-6-55-9 0-10 25-9-8zM2907 3998l9 65-7-28-9-59zM2860 4034l9 39 9-35-6-10-10-5-9-16zM2803 4083l9-30 10 52-7-54-9 3-10 3zM2745 4104l10-13 9-31-6 36-10-58-9 64z"/><path class="w13" d="M3134 3922l8 13-7 6-8-13zM2878 4038l10-14 9-4 10-22-7-22-9 56-10-29-9 25zM2841 4068l9-34 10 0-7-27-10-17-9 53z"/><path class="w10" d="M3115 3968l8 21-8 35-7-36zM2774 4113l10 21 9-23-6-4-10-8-9 36z"/><path class="w12" d="M3149 3942l8 7 9 3 10-35-8 27-10 29-8-13-8-25zM3130 3995l10-39-6-34-11 67zM3104 3972l9 15 9-21-7 2-8-48-10 67zM3068 3995l9-7 9-9-7 14-8-29-9-12zM3033 3979l8 20 10-39 7 82-5-58-9-15-10 64-8-82zM3014 4026l10-56-7 10-9 27zM2969 4027l9-19 9 5-7-5-9-8-9 40zM2941 4030l9-1-7 25-8-58zM2913 4021l9 31-6 11-9-65zM2857 4094l9-49 10 9 9-27 9 21 10-3-7-25-9 4-10 14-9 35-9-39-10 0zM2809 4051l10-9 9 42-6 21-10-52-9 30zM2761 4086l10-12-7-14-9 31z"/><path class="w13" d="M3140 3956l9-14-7-7-8-13zM3024 3970l9 9-7-28-9 29zM2904 4045l9-24-6-23-10 22z"/><path class="w11" d="M3122 3966l8 29-7-6-8-21zM3086 3979l9 10 9-17-7 15-9-8-9 14zM3058 4042l10-47-6-43-9 32zM2987 4013l9 18 9-14 9 9-6-19-10 26-9 4-9-29zM2950 4029l9-5 10 3-7 13-9-7-10 21zM2931 4081l10-51-6-34-10 53zM2828 4084l10-22 9 25 10 7-7-60-9 34-10-5-9 42zM2790 4086l10-3 9-32-6 32-10 28-9 23zM2771 4074l10 33-7 6-10-53zM2752 4114l9-28-6 5-10 13z"/><path class="w10" d="M2922 4052l9 29-6-32-9 14zM2781 4107l9-21-6 48-10-21z"/><path class="w12" d="M3146 3984l10-38 7 34 9-16 10-28-6-19-10 35-9-3-8-7-9 14zM3111 3981l9-17 9 5-7-3-9 21-9-15zM3039 3990l10-7 8 5-6-28-10 39-8-20zM3012 4002l9 13 10-53-7 8-10 56-9-9zM2957 4017l9 22 9-19 9 24 10-13-7-18-9-5-9 19-10-3-9 5zM2910 4075l10-46 9 6-7 17-9-31-9 24zM2873 4074l9-41 10 24 9 8-7-17-9-21-9 27-10-9zM2816 4067l9 19 10-4-7 2-9-42-10 9zM2797 4099l9-100-6 84-10 3zM2768 4125l9-46 10-5-6 33-10-33-10 12z"/><path class="w11" d="M3129 3969l8 20 9-5-6-28-10 39-8-29zM3057 3988l9 34 9-26 8 28 10-34 8 23 10-32-7-9-9 17-9-10-9 9-9 7-10 47-7-82zM2994 4031l8 20 10-49-7 15-9 14-9-18zM2929 4035l10-28 8 63 10-53-7 12-9 1-10 51-9-29zM2901 4065l9 10-6-30-10 3zM2835 4082l9 13 10-25 9 3 10 1-7-29-9 49-10-7-9-25-10 22zM2787 4074l10 25-7-13-9 21zM2758 4102l10 23-7-39-9 28z"/><path class="w13" d="M3031 3962l8 28-6-11-9-9zM2806 3999l10 68-7-16-9 32z"/><path class="w12" d="M3178 3999l10-38-6-25-10 28zM3152 3997l10-31 9 3-8 11-7-34-10 38zM3118 3989l9-10 9-8 8 12-7 6-8-20-9-5-9 17zM3046 4011l9-2 9-7 10-29 8 29-7-6-9 26-9-34-8-5-10 7zM3018 4031l11-63-8 47-9-13zM2964 4039l9-19 9 25 10-50 8 30-6 6-10 13-9-24-9 19-9-22zM2936 4070l9-46 9 26-7 20-8-63-10 28zM2879 4087l10-54 9 34-6-10-10-24-9 41zM2861 4065l9-21-7 29-9-3zM2822 4069l10 20-7-3-9-19zM2774 4121l10-53 10 27 9-23-6 27-10-25-10 5-9 46z"/><path class="w11" d="M3171 3969l7 30-6-35-9 16zM3144 3983l8 14-6-13-9 5zM3082 4002l9-9 8 35 9-8 10-31-7-8-10 32-8-23-10 34-8-28zM3000 4025l9 28 9-22-6-29-10 49-8-20zM2954 4050l10-11-7-22-10 53zM2898 4067l10-12 9-13 9 36 10-8-7-35-9-6-10 46-9-10-9-8zM2870 4044l9 43-6-13-10-1zM2832 4089l10 3 9-3 10-24-7 5-10 25-9-13-10 4zM2765 4110l9 11-6 4-10-23z"/><path class="w13" d="M3029 3968l9 3 8 40-7-21-8-28-10 53zM2803 4072l10-10 9 7-6-2-10-68-9 100z"/><path class="w11" d="M3178 3967l8 16 10-36-8 14-10 38-7-30zM3151 3972l9 5 9 0-7-11-10 31-8-14zM3098 3984l8 26 10-22 8 9-6-8-10 31-9 8-8-35zM2980 4021l8 63 9-8 10-34 9 15 10-62-8 36-9 22-9-28-8-30-10 50-9-25zM2961 4062l9-22-6-1-10 11zM2933 4033l9 13-6 24-10 8zM2839 4080l9 27 10 6 9-38-6-10-10 24-9 3-10-3zM2791 4120l9 23-6-48-10-27zM2771 4116l10-14-7 19-9-11z"/><path class="w12" d="M3169 3977l9-10-7 2-9-3zM3143 3964l8 8-7 11-8-12zM3124 3997l11-53-8 35-9 10zM3043 4028l10-40 9 19 9-15 9 20 8 5 10-33-7 9-9 9-8-29-10 29-9 7-9 2-8-40zM2970 4040l10-19-7-1-9 19zM2942 4046l10-13 9 29-7-12-9-26-9 46zM2867 4075l10-17 9-14 10 4 9 1 9 5 10-14 9-7-7 45-9-36-9 13-10 12-9-34-10 54-9-43-9 21zM2829 4081l10-1-7 9-10-20zM2800 4143l10-67-7-4-9 23zM2781 4102l10 18-7-52-10 53z"/><path class="w13" d="M3135 3944l8 20-7 7-9 8zM3026 3995l9-19 8 52-5-57-9-3-11 63zM2810 4076l9-16 10 21-7-12-9-7-10 10z"/><path class="w12" d="M3175 3994l10-27 8 2 10-27-7 5-10 36-8-16-9 10zM3160 3931l6 73-6-27-9-5zM3095 4033l10-44 9 5-8 16-8-26-10 33zM3032 4050l10-44 9 7 8 12 9 5 10-21 9 4-7-1-9-20-9 15-9-19-10 40-8-52-9 19zM2874 4045l9 23 10 20 9-19 10 5 9 1 9 4 10-38 9-1 10-18 9-11 9 46 9-16-6-20-10 19-9 22-9-29-10 13-9-13-9 7-10 14-9-5-9-1-10-4-9 14-10 17zM2817 4133l9-67 10 31 9-14-6-3-10 1-10-21-9 16zM2778 4146l9-69 10 30-6 13-10-18-10 14z"/><path class="w11" d="M3166 4004l9-10-6-17-9 0zM3114 3994l8 36 9-37-7 4-8-9-10 22zM3087 4013l8 20-7-16-8-5zM3005 4045l9-6 9 0 9 11-6-55-10 62-9-15-10 34zM2986 4041l9 49-7-6-8-63zM2864 4127l10-82-7 30-9 38zM2845 4083l10 27-7-3-9-27zM2797 4107l10 21 10 5-7-57-10 67-9-23z"/><path class="w13" d="M3131 3993l11-49 8 25 10-38-9 41-8-8-8-20-11 53z"/><path class="w10" d="M2995 4090l10-45-8 31-9 8zM2855 4110l9 17-6-14-10-6z"/><path class="w12" d="M3200 3983l9-23-6-18-10 27zM3174 3979l9-8-8 23-9 10zM3138 4011l8 13 10-21-6-34-8-25-11 49zM3112 3996l8 23-6-25-9-5zM3075 4017l10-10 8 19-6-13-9-4-10 21zM2975 4046l9 14-7-3-9-46zM2881 4069l9 11 10-5 9-16 10-36 9 13 9 21 9 25 10-20 9-17-6-23-10 18-9 1-10 38-9-4-9-1-10-5-9 19-10-20-9-23zM2823 4108l10-23 9 13 10 10-7-25-9 14-10-31-9 67zM2784 4125l10-42-7-6-9 69z"/><path class="w11" d="M3183 3971l7 39 10-27-7-14-8-2-10 27zM3120 4019l10-28 8 20-7-18-9 37-8-36zM3093 4026l8 35 11-65-7-7-10 44-8-20zM2984 4060l9-11 9-5 9 0 10 2 8 39 10-65 9 42 9-4 8 6 10-47-7 13-9-5-8-12-9-7-10 44-9-11-9 0-9 6-10 45-9-49-9 16zM2852 4108l9-6 10 16 10-49-7-24-10 82-9-17-10-27zM2804 4092l10 71-7-35-10-21z"/><path class="w13" d="M3156 4003l10-48 8 24-8 25-6-73-10 38zM2965 4045l10 1-7-35-9 11zM2794 4083l10 9-7 15-10-30z"/><path class="w10" d="M2814 4163l9-55-6 25-10-5z"/><path class="w12" d="M3206 4005l11-51-8 6-9 23zM3182 3964l8 12-7-5-9 8zM3162 4024l10-47-6-22-10 48zM3120 3963l8 40 8-4-6-8-10 28-8-23zM3090 4060l11-77-8 43-8-19zM3047 3998l7 61-6 3-9-42zM3000 4038l9 30-7-24-9 5zM2962 4087l10-29 9-10 9 31-6-19-9-14-10-1-9 17zM2944 4055l9 8-7 19-9-25zM2897 4110l9-48 10 13-7-16-9 16-10 5zM2830 4147l9-77 10 32 10-5-7 11-10-10-9-13-10 23zM2791 4137l10 8 9-70-6 17-10-9-10 42z"/><path class="w11" d="M3190 3976l7 41 9-12-6-22-10 27-7-39zM3136 3999l8 42 10-42 8 25-6-21-10 21-8-13-8-20zM3101 3983l8 63 11-83-8 33-11 65-8-35zM3054 4059l10-40 9 34 9-10 8 17-5-53-10 10-10 47-8-6-9 4zM3009 4068l9 15 10-67 8 42 11-60-8 22-10 65-8-39-10-2-9 0zM2990 4079l10-41-7 11-9 11zM2953 4063l9 24-6-25-10 20zM2859 4097l9 4 10 13 9 5 10-9-7-30-9-11-10 49-10-16-9 6zM2810 4075l10 62-6 26-10-71z"/><path class="w13" d="M3172 3977l10-13-8 15-8-24zM2916 4075l9-45 10 28 9-3-7 2-9-21-9-13-10 36z"/><path class="w10" d="M2820 4137l10 10-7-39-9 55z"/><path class="w11" d="M3197 3972l8 39 8-5 10-21-6-31-11 51-9 12-7-41zM3152 4005l8 18 9 20 10-52-7-14-10 47-8-25-10 42zM3071 4048l8 24 10-32 9-8 9 7 9 8-7-1-8-63-11 77-8-17-9 10-9-34zM3015 4091l10-46-7 38-9-15zM2960 4072l9-2 9 23 10-7 9-16-7 9-9-31-9 10-10 29-9-24zM2856 4157l9 5 10-27 9-12 10 1 10-46-7 32-10 9-9-5-10-13-9-4-10 5zM2837 4169l9-59-7-40-9 77zM2798 4166l9-27-6 6-10-8z"/><path class="w12" d="M3179 3991l9 5 9-24-7 4-8-12-10 13zM3135 3988l9-3 8 20-8 36-8-42-8 4zM3116 4047l9-30-5-54-11 83zM3025 4045l10-14 8 35 10-32 9-11 9 25-7-29-10 40-7-61-11 60-8-42-10 67zM2997 4070l10-48 8 69-6-23-9-30-10 41zM2932 4075l9 29 10-26 9-6-7-9-9-8-9 3-10-28zM2904 4078l9 29 10-40-7 8-10-13-9 48zM2846 4110l10 47-7-55-10-32zM2807 4139l10-52 10 68-7-18-10-62-9 70z"/><path class="w13" d="M3125 4017l10-29-7 15-8-40zM2923 4067l9 8-7-45-9 45z"/><path class="w10" d="M2827 4155l10 14-7-22-10-10z"/><path class="w11" d="M3219 4050l12-94-8 29-10 21zM3204 3976l7 56-6-21-8-39zM3159 4012l9 5 8 5 9 2-6-33-10 52-9-20-8-18zM3113 4055l10-23 9-3-7-12-9 30-9-8zM3086 4089l11-83 7 82-6-56-9 8-10 32zM3069 4034l8 39-6-25-9-25zM3023 4072l9-30-7 3-10 46zM2967 4092l9 3 10-19 9 11 9-18-7 1-9 16-10 7-9-23-9 2zM2891 4124l10-17-7 17-10-1zM2853 4125l9 30-6 2-10-47zM2824 4125l9 12-6 18-10-68z"/><path class="w10" d="M3211 4032l8 18-6-44-8 5zM3104 4088l9-33-6-16-9-7zM3077 4073l9 16-7-17-8-24zM2862 4155l10-3 10 12 9-40-7-1-9 12-10 27-9-5zM2833 4137l10 34 10-46-7-15-9 59-10-14zM2805 4182l9-42-7-1-9 27z"/><path class="w12" d="M3185 4024l10-33 9-15-7-4-9 24-9-5zM3151 3984l8 28-7-7-8-20zM3132 4029l10-55-7 14-10 29zM3032 4042l9-2 9 6 10-33 9 21-7-11-9 11-10 32-8-35-10 14zM3004 4069l10-11 9 14-8 19-8-69-10 48zM2949 4033l9 32 9 27-7-20-9 6-10 26zM2901 4107l9-40 10 27 9-7-6-20-10 40-9-29-10 46zM2814 4140l10-15-7-38-10 52z"/><path class="w13" d="M3142 3974l9 10-7 1-9 3zM2929 4087l10-56 10 2-8 71-9-29-9-8z"/></g>
<path d="M1397.4 2210.3L1638.5 2119.8M1237.3 2084.4L1397.4 2210.3M1237.3 2084.4L1229 1891.2M1418.5 2206.3L1413.1 2202.2M1381.3 2202.4L1387.7 2200M1472.6 2186L1467.2 2181.9M1344.9 2173.7L1351.2 2171.4M1525.3 2166.2L1519.7 2162.2M1309.7 2146.1L1316.2 2143.8M1576.5 2146.9L1570.9 2143M1275.9 2119.4L1282.4 2117.2M1626.5 2128.1L1620.8 2124.3M1243.3 2093.8L1249.8 2091.6M1232 2058.5L1238.5 2056.4M1230.6 2027.5L1237.1 2025.5M1229.4 1998L1235.9 1996M1228 1966.2L1234.5 1964.2M1226.6 1934.2L1233.1 1932.2M1225.1 1900.8L1231.7 1899" stroke="#111" stroke-width="0.85" fill="none"/>
<g class="tk" font-size="14"><text x="1423.9" y="2230.7">−10</text><text x="1373.7" y="2225.8">−10</text><text x="1477.7" y="2210">−5</text><text x="1337.3" y="2196.6">−5</text><text x="1530.1" y="2189.8">0</text><text x="1302.2" y="2168.5">0</text><text x="1581" y="2170.2">5</text><text x="1268.4" y="2141.5">5</text><text x="1630.7" y="2151.1">10</text><text x="1235.8" y="2115.4">10</text></g>
<text class="al" x="1544.4" y="2209.8" font-size="16.4">x</text>
<text class="al" x="1282" y="2183.1" font-size="16.4">y</text>
<text class="zl" transform="translate(1211.8 1988.6) rotate(87.5)" font-size="15.6">Error</text>
<linearGradient id="g8" x1="0" y1="0" x2="0" y2="1"><stop offset="0%" stop-color="#b40426"/><stop offset="6.2%" stop-color="#ca3b37"/><stop offset="12.5%" stop-color="#dd5f4b"/><stop offset="18.8%" stop-color="#eb7d62"/><stop offset="25%" stop-color="#f4987a"/><stop offset="31.2%" stop-color="#f7b093"/><stop offset="37.5%" stop-color="#f5c4ac"/><stop offset="43.8%" stop-color="#ecd3c5"/><stop offset="50%" stop-color="#dddcdc"/><stop offset="56.2%" stop-color="#ccd9ed"/><stop offset="62.5%" stop-color="#b9d0f9"/><stop offset="68.8%" stop-color="#a3c2fe"/><stop offset="75%" stop-color="#8db0fe"/><stop offset="81.2%" stop-color="#779af7"/><stop offset="87.5%" stop-color="#6282ea"/><stop offset="93.8%" stop-color="#4e68d8"/><stop offset="100%" stop-color="#3b4cc0"/></linearGradient>
<rect x="1662.8" y="1870.9" width="19.4" height="283.3" fill="url(#g8)" stroke="#111" stroke-width="0.85"/>
<path d="M1682.2 2124.5h3.3M1682.2 2087.3h3.3M1682.2 2050.2h3.3M1682.2 2013.1h3.3M1682.2 1975.9h3.3M1682.2 1938.8h3.3M1682.2 1901.7h3.3" stroke="#111" stroke-width="0.85" fill="none"/>
<g class="cb" font-size="12.0"><text x="1689.1" y="2128.1">−1.5</text><text x="1689.1" y="2090.9">−1.0</text><text x="1689.1" y="2053.8">−0.5</text><text x="1689.1" y="2016.6">0.0</text><text x="1689.1" y="1979.5">0.5</text><text x="1689.1" y="1942.4">1.0</text><text x="1689.1" y="1905.2">1.5</text></g>
<text class="cb" font-size="12.0" x="1683" y="1868.4" text-anchor="end">×10<tspan dy="-4.6" font-size="8.4">−2</tspan></text>
<text class="cap" transform="translate(1460.1 2300.3) scale(1.06 1)" font-size="42" textLength="242.1" lengthAdjust="spacing">(i) LSM Error</text>
</g>
</svg></body></html>
